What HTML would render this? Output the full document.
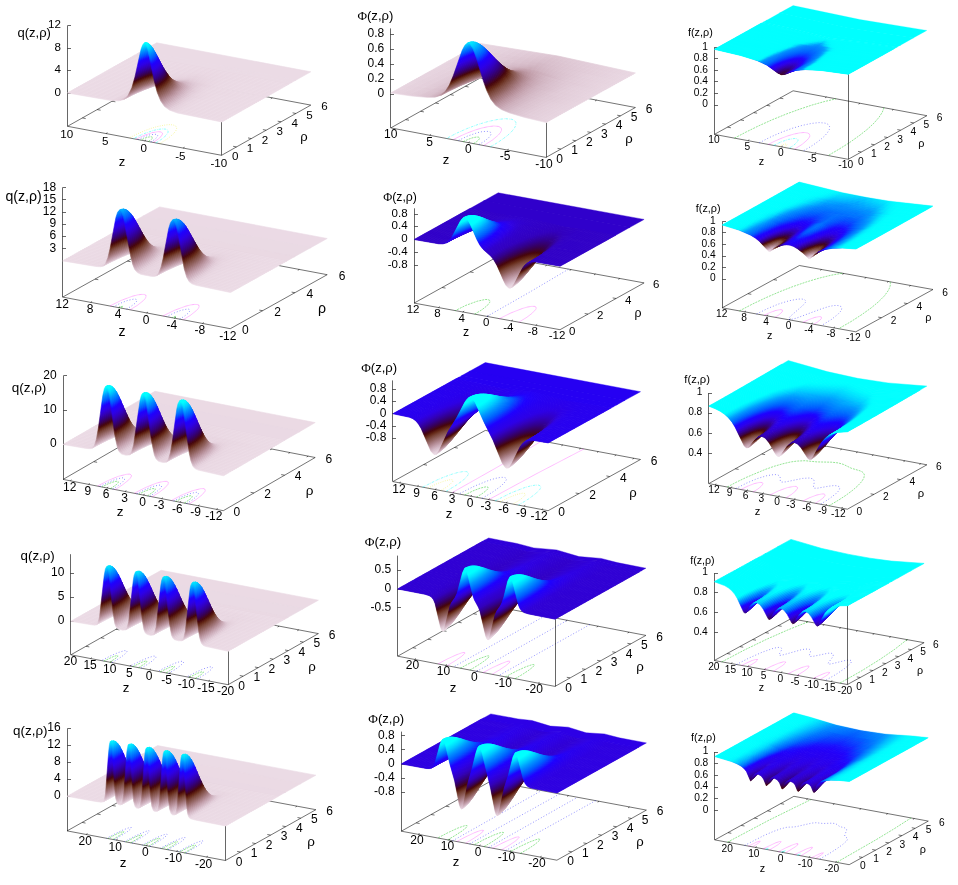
<!DOCTYPE html>
<html><head><meta charset="utf-8"><title>plots</title><style>html,body{margin:0;padding:0;background:#fff}svg{display:block}text{font-family:"Liberation Sans",sans-serif}.s{font-family:"Liberation Serif",serif}</style></head><body>
<svg width="958" height="885" viewBox="0 0 958 885" font-size="11" fill="#000">

<!-- a -->
<g fill="none" stroke="#000" stroke-width=".55">
<path d="M67.5 126.3L221.6 155.3L310.8 105.1L156.7 76.1Z"/>
<path d="M106.0 133.6L107.5 132.7M195.2 83.3L193.7 84.2M144.6 140.8L146.0 140.0M233.8 90.6L232.3 91.4M183.1 148.1L184.6 147.2M272.3 97.8L270.8 98.7M236.5 146.9L233.1 146.3M82.4 117.9L85.7 118.6M251.3 138.6L248.0 137.9M97.2 109.6L100.6 110.2M266.2 130.2L262.9 129.6M112.1 101.2L115.4 101.8M281.1 121.8L277.7 121.2M127.0 92.8L130.3 93.5M295.9 113.5L292.6 112.8M141.8 84.5L145.2 85.1"/>
</g>
<g fill="none" stroke-width=".42">
<path d="M148.4 141.5l3.2-2.3 .8-.9 .1-1-1.6-.6-2.5 .4-3.4 1-4.3 2" stroke="#00c000" stroke-dasharray="2 1"/>
<path d="M150.8 142l3.4-2.2 2.6-2.3 .9-1.7-.5-1.2-2.6-.4-4.8 .7-5.6 1.9-5.9 2.8" stroke="#0000ff" stroke-dasharray="1 2"/>
<path d="M153.1 142.4l4.7-3 3.2-2.8 1.5-2.5 0-1-.6-.6-1.5-.6-2.3-.2-6.1 1-8.3 2.8-7.7 3.7" stroke="#ff00ff" stroke-dasharray=".7 .5"/>
<path d="M155.8 142.9l6.1-3.9 4.2-3.6 1.9-3 .1-1.5-.7-1-2-.8-3.1-.2-4.4 .5-4.2 1-10.4 3.5-10 4.8" stroke="#00ffff" stroke-dasharray="2.5 1 .6 1"/>
<path d="M159.8 143.7l8.1-5.2 5.9-5 1.9-2.5 .9-1.9 0-1.5-.8-1.5-1.3-.7-1.7-.5-3.8-.3-5.2 .6-6.3 1.3-6.9 2-7 2.6-8 3.6-6.3 3.2" stroke="#e8e800" stroke-dasharray=".8 1.5"/>
</g>
<g fill="none" stroke="#000" stroke-width=".6">
<path d="M67.5 126.3L67.5 25.7M67.5 93.5L71.0 93.5M67.5 70.5L71.0 70.5M67.5 48.5L71.0 48.5M67.5 25.5L71.0 25.5M221.5 155.3L221.5 122.0"/>
</g>
<linearGradient id="Pa" gradientUnits="userSpaceOnUse" x1="67.50" y1="93.00" x2="79.74" y2="27.98"><stop offset="0" stop-color="#ecdce6"/><stop offset="0.03" stop-color="#e2cdd9"/><stop offset="0.06" stop-color="#d4b9c6"/><stop offset="0.1" stop-color="#c3a0ac"/><stop offset="0.15" stop-color="#aa8087"/><stop offset="0.2" stop-color="#91625f"/><stop offset="0.25" stop-color="#7a463a"/><stop offset="0.29" stop-color="#642816"/><stop offset="0.334" stop-color="#46050a"/><stop offset="0.388" stop-color="#370050"/><stop offset="0.448" stop-color="#32008c"/><stop offset="0.51" stop-color="#3200be"/><stop offset="0.57" stop-color="#2d00e6"/><stop offset="0.645" stop-color="#1e00ff"/><stop offset="0.72" stop-color="#0058ff"/><stop offset="0.8" stop-color="#0096ff"/><stop offset="0.86" stop-color="#00cdff"/><stop offset="0.9" stop-color="#00ebff"/><stop offset="0.93" stop-color="#00ffff"/><stop offset="1" stop-color="#00ffff"/></linearGradient>
<g stroke-width=".6" stroke-linejoin="round" fill="url(#Pa)" stroke="url(#Pa)"><path d="M141.2 51.5l77 14.2 77.1 14.8 15.5-8.7-154.1-29z" fill="#ebdbe5" stroke="#ebdbe5"/><path d="M137.4 53.6l77.1 14.1 77 14.9 4.4-2.5-77-14.8-77.1-14.2z" fill="#ebdbe5" stroke="#ebdbe5"/><path d="M133.7 55.7l77.1 14 77 15 4.4-2.5-77-14.9-77.1-14.1z" fill="#ebdbe5" stroke="#ebdbe5"/><path transform="translate(66.9 -37.65)" d="M65 94.4l77 13.9 77.1 15.1 2.5-1.4-77-15-77.1-14z"/><path transform="translate(65.04 -36.6)" d="M65 94.4l77 13.8 77.1 15.2 2.5-1.4-77-15.1-77.1-13.9z"/><path transform="translate(63.18 -35.56)" d="M65 94.4l77 13.8 77.1 15.2 2.5-1.4-77-15.1-77.1-13.9z"/><path transform="translate(61.33 -34.51)" d="M65 94.4l77 13.7 77.1 15.3 2.5-1.4-77.1-15.2-77-13.8z"/><path transform="translate(59.47 -33.47)" d="M65 94.4l43.1 7.9 33.9 5.7 33.9 7.1 43.2 8.3 2.5-1.4-77.1-15.3-77-13.7z"/><path transform="translate(57.61 -32.42)" d="M65 94.4l43.9 8 33.1 5.4 33.2 7.1 43.9 8.5 2.5-1.4-77.1-15.4-77-13.6z"/><path transform="translate(55.75 -31.38)" d="M65 94.4l44.7 8.2 32.3 5.1 32.4 7 44.7 8.7 2.5-1.4-43.5-8.4-33.5-7.1-33.6-5.5-43.5-8z"/><path transform="translate(53.89 -30.33)" d="M65 94.4l45.4 8.3 31.6 4.8 31.6 7.1 45.5 8.8 2.5-1.4-44.3-8.6-32.7-7.1-32.8-5.2-44.3-8.1z"/><path transform="translate(52.03 -29.28)" d="M65 94.4l45.8 8.3 31.2 4.6 31.2 7.2 45.9 8.9 2.5-1.4-45.1-8.8-31.9-7.1-32-4.9-45.1-8.2z"/><path transform="translate(50.18 -28.24)" d="M65 94.4l46.6 8.4 30.4 4.2 30.5 7.3 46.6 9.1 2.5-1.4-45.8-8.9-31.3-7.2-31.2-4.6-45.8-8.3z"/><path transform="translate(48.32 -27.19)" d="M65 94.4l47.4 8.5 29.6 3.8 29.7 7.4 47.4 9.3 2.5-1.4-46.6-9.1-30.5-7.2-30.4-4.3-46.6-8.4z"/><path transform="translate(46.46 -26.15)" d="M65 94.4l48.1 8.6 28.9 3.3 28.9 7.6 48.2 9.5 2.5-1.4-47-9.2-30.1-7.4-30-3.9-47-8.5z"/><path transform="translate(44.6 -25.1)" d="M65 94.4l48.5 8.7 28.5 2.8 28.5 7.9 48.6 9.6 2.5-1.4-47.8-9.4-29.2-7.5-29.3-3.5-47.8-8.6z"/><path transform="translate(42.74 -24.05)" d="M65 94.4l49.3 8.7 8.8 1.1 13.9 .5 5 .6 18.9 6 8.9 2.3 49.3 9.8 2.5-1.4-48.5-9.6-28.5-7.8-28.6-2.9-48.5-8.7z"/><path transform="translate(40.88 -23.01)" d="M65 94.4l50.1 8.8 8.8 .9 13.1 0 5 .5 5 1.4 13.1 4.9 8.9 2.5 50.1 10 2.5-1.4-49.3-9.8-27.7-8.1-27.8-2.4-49.3-8.7z"/><path transform="translate(39.03 -21.96)" d="M65 94.4l50.4 8.8 8.9 .7 12.7-.5 5 .4 5 1.5 12.7 5.3 8.9 2.6 50.5 10.2 2.5-1.4-49.7-10-8.9-2.4-13.4-4.8-5.1-1.3-5-.6-13.4-.2-8.9-.9-49.7-8.8z"/><path transform="translate(37.17 -20.92)" d="M65 94.4l35.8 6.5 15.4 2.4 8.5 .4 12.7-1.2 4.6 .3 4.6 1.5 12.8 5.9 8.4 2.8 15.4 3.5 35.9 6.9 2.5-1.4-50.5-10.2-8.8-2.6-12.7-5.1-5.1-1.4-5-.4-12.7 .3-8.8-.8-50.5-8.8z"/><path transform="translate(35.31 -19.87)" d="M65 94.4l49.3 8.6 9.6 .5 8.9-1.2 2.5-.5-8.9 .6-10-.8-48.9-8.6zM135.3 101.8l7.3-.3-2.5-.1-7.3 .9zM140.1 101.4l5.4 1.3 12.7 6.8 9.6 3.4 15.4 3.5 35.9 7 2.5-1.4-50.5-10.2-10-3.2-13.1-5.8-5.4-1.3z"/><path transform="translate(33.45 -18.83)" d="M65 94.4l48.1 8.4 9.3 .6 7.7-1.1 2.5-.7-7.7 .6-9.6-.8-47.8-8.4zM132.6 101.6l7.3-1.1 4.7 .2-2.6-.5-4.2 0-7.7 2.1zM142 100.2l4.6 1.8 12 7.4 8.1 3.1 15 3.6 37.4 7.3 2.5-1.4-36.2-7.1-15.4-3.5-8.5-2.9-12.3-6.3-4.6-1.5z"/><path transform="translate(31.59 -17.78)" d="M65 94.4l47.4 8.3 9.2 .5 6.9-1.1 2.6-.7-7.4 .6-9.2-.7-47-8.3zM131.1 101.4l9.6-2.2 5 .4-2.5-.8-2.3-.4-2.7 .2-9.7 3.5zM143.2 98.8l3.8 2 10.8 7.8 8.5 3.7 15 3.7 37.8 7.4 2.5-1.4-37-7.2-15-3.6-8.9-3.3-11.1-6.6-3.9-1.7z"/><path transform="translate(29.73 -16.73)" d="M65 94.4l46.6 8.2 8.9 .5 6.5-1 2.5-.8-6.9 .6-8.9-.8-46.2-8.1zM129.5 101.3l11.6-3.6 2.7-.1 2.7 .7-2.5-1.2-2.7-.7-2.7 .3-11.6 5.4zM144 97.1l3 2 10.1 8.6 4.2 2.5 4.6 1.9 14.7 3.8 38.5 7.5 2.5-1.4-37.8-7.4-15-3.7-8.8-3.8-10.4-7.2-3.1-1.6z"/><path transform="translate(27.88 -15.69)" d="M65 94.4l46.2 8.1 8.9 .5 6.1-1.2 2.5-.8-6.5 .7-8.9-.7-45.8-8zM128.7 101l12.8-5.1 3-.1 2.7 1-2.5-1.5-2.7-1.2-3.1 .3-8.8 5.6-3.9 1.8zM144.7 95.3l12 11.6 4.2 2.8 4.6 2.2 14.7 3.9 38.9 7.6 2.5-1.4-38.5-7.6-14.7-3.7-4.6-1.9-4.2-2.3-12.4-9.7z"/><path transform="translate(26.02 -14.64)" d="M65 94.4l45.4 8 8.5 .5 6.2-1.1 2.5-.9-6.2 .7-8.8-.7-45.1-7.9zM127.6 100.9l4.2-1.6 9.7-5.5 3-.2 2.7 1.1-2.5-2.1-2.7-1.3-3.1 .5-9.2 7.5-4.6 2.5zM144.7 92.6l11.6 13.4 4.2 3.2 4.6 2.4 5.8 1.9 8.5 2.1 39.7 7.8 2.5-1.4-38.9-7.7-14.7-3.8-4.6-2.1-4.2-2.7-12-11z"/><path transform="translate(24.16 -13.6)" d="M65 94.4l45 7.9 8.5 .5 5.8-1.1 2.5-.9-6.1 .7-8.5-.7-44.7-7.8zM126.8 100.8l5-2.3 7.4-5.8 2.7-1.5 2.6-.3 3.1 1.6-2.5-2.5-3.1-2-2.7 .6-2.3 1.8-7.3 8-2.7 2-2.7 1.3zM145.1 90l11.2 15.3 3.8 3.4 4.7 2.6 5.7 2.1 8.1 2 40.5 8 2.5-1.4-39.7-7.8-14.2-4-4.7-2.3-4.2-3.1-11.2-12.3z"/><path transform="translate(22.3 -12.55)" d="M65 94.4l45 7.9 8.1 .4 5.8-1.2 2.5-1-5.7 .9-8.5-.6-44.7-7.8zM126.4 100.5l5.4-2.9 7.7-7.6 2.4-1.7 2.7-.5 3 1.9-2.5-3.1-1.5-1.5-1.6-.8-2.7 .8-2.3 2.4-7.3 9.8-2.7 2.5-3.1 1.7zM145.1 86.6l10.8 17.4 3.8 4 4.7 3 5.7 2.2 8.1 2.1 40.9 8.1 2.5-1.4-40.1-7.9-8.4-2.1-5.8-2.1-4.6-2.5-3.9-3.3-11.2-14.4z"/><path transform="translate(20.44 -11.5)" d="M65 94.4l44.3 7.7 8.1 .5 5.7-1.1 2.6-1-5.8 .8-8.1-.6-44.3-7.7zM125.7 100.5l3.1-1.4 3-2.4 7.7-9.5 2.4-2.2 2.7-.7 1.5 .7 1.5 1.4-2.5-3.6-2.7-2.5-1.1-.1-1.6 .8-2.3 2.7-8.1 13-3.1 3-3.1 1.8zM145.1 82.8l10.4 19.8 3.9 4.7 4.6 3.3 5.8 2.4 8.1 2.2 41.2 8.2 2.5-1.4-40.8-8.1-8.1-2.1-5.8-2.2-4.6-2.9-3.9-3.8-10.8-16.5z"/><path transform="translate(18.58 -10.46)" d="M65 94.4l44.3 7.7 8.1 .4 5.4-1.1 2.5-1.1-5.8 1-8.1-.6-43.9-7.7zM125.3 100.3l3.5-1.8 3-2.9 8.1-12.1 2.3-2.5 1.6-.7 1.1 .2 2.7 2.3-2.5-4-2.7-2.9-1.1-.1-1.6 .9-2.3 3.3-5.4 11.1-2.7 4.5-3.1 3.5-3.4 2.3zM145.1 78.8l10 22.3 3.9 5.3 4.6 3.8 5.4 2.5 8.1 2.3 42 8.4 2.5-1.4-41.2-8.2-8.1-2.2-5.8-2.3-4.6-3.3-3.9-4.4-10.4-18.8z"/><path transform="translate(16.73 -9.41)" d="M65 94.4l43.9 7.7 8.1 .4 5.4-1.2 2.5-1.1-5.4 1-8.1-.5-43.9-7.7zM124.9 100.2l3.5-2 3.4-3.6 8.1-14.6 2.3-3.1 1.2-.8 1.1-.1 1.2 .5 1.5 1.8-2.5-4.6-1.5-2.1-1.2-.6-1.1 .2-1.2 1-2.3 4-5.4 13-2.7 5.3-3.1 4.1-3.8 2.7zM144.7 73.7l10.4 26.3 3.9 6 4.2 3.8 5.4 2.7 8.1 2.4 42.4 8.5 2.5-1.4-42-8.4-8.1-2.3-5.4-2.4-4.2-3.3-3.9-5-10.8-22.3z"/><path transform="translate(14.87 -8.37)" d="M65 94.4l43.9 7.7 7.7 .3 5.4-1.2 2.5-1.1-5.4 1-8.1-.5-43.5-7.6zM124.5 100.1l3.9-2.4 3.4-4.2 2.7-5 5.4-12.3 2.3-3.8 1.2-.9 1.1-.2 1.2 .6 1.5 2-2.5-4.8-1.5-2.4-1.2-.7-1.1 .3-1.2 1.2-1.9 3.8-5.4 15.1-3.1 7-3.5 5-3.8 2.8zM144.7 69.1l7.7 23.2 2.7 6.7 3.9 6.5 4.2 4.1 5.4 2.9 7.7 2.3 42.8 8.6 2.5-1.4-42-8.4-8.1-2.3-5.4-2.6-4.6-4-3.9-5.7-10.4-25.1z"/><path transform="translate(13.01 -7.32)" d="M65 94.4l43.5 7.6 7.7 .4 5.4-1.2 2.5-1.2-5.4 1.1-8.1-.6-43.1-7.5zM124.1 100l4.3-2.8 3.4-4.8 3.1-6.7 5-13.4 2.3-4.5 1.2-1.2 1.1-.2 1.2 .7 1.2 1.5-2.6-4.9-1.1-1.9-1.2-.7-1.1 .3-1.2 1.5-1.9 4.4-5.4 17.2-3.1 7.8-3.5 5.6-4.2 3.3zM144.3 63.7l2 5.1 5.4 19.3 3 9 3.9 7.5 4.2 4.6 5.4 3.1 7.7 2.4 43.2 8.7 2.5-1.4-42.4-8.5-8.1-2.4-5.4-2.8-4.2-4-3.9-6.3-3-7.6-5.8-17.5-1.9-4.3z"/><path transform="translate(11.15 -6.28)" d="M65 94.4l43.5 7.6 7.7 .4 5.4-1.4 2.5-1.2-5.4 1.2-7.7-.4-43.5-7.6zM124.1 99.8l4.3-3.1 3.4-5.4 3.1-7.6 5.4-16.4 1.9-4.2 1.2-1.4 1.2-.3 1.9 1.9-2.6-4.8-1.9-2.1-1.1 .4-1.2 1.6-2.3 6.3-5.4 19.3-2.7 7.4-3.5 6.1-1.9 2-2.3 1.5zM143.9 58.5l2.4 6.5 5.4 21.3 3 9.9 3.5 7.4 4.2 5.1 5.4 3.4 7.7 2.5 43.6 8.8 2.5-1.4-43.1-8.7-7.8-2.4-5.3-3.1-4.3-4.5-3.8-7.2-3.1-8.7-5.4-18.5-2.3-5.6z"/><path transform="translate(9.29 -5.23)" d="M65 94.4l43.1 7.5 7.7 .4 5.4-1.2 2.5-1.3-5.3 1.2-7.8-.5-43.1-7.5zM123.7 99.8l4.3-3.1 3.8-6.4 3.1-8.4 5.4-18.6 1.9-4.7 2-2 .7 .1 1.2 1.3-2.5-4.3-1.2-1.4-.8-.2-1.9 2.4-2.3 6.9-5.4 21.1-2.7 8-3.8 7.1-2 2-2.3 1.5zM143.6 53.7l2.3 6.4 5.8 24.7 3 10.5 3.5 7.9 4.2 5.4 5.4 3.4 7.7 2.6 43.6 8.8 2.5-1.4-43.5-8.8-7.7-2.5-5.4-3.4-4.3-5-3.4-7.2-3.1-9.6-5.4-20.6-2.7-6.9z"/><path transform="translate(7.43 -4.18)" d="M65 94.4l43.5 7.6 7.7 .3 5-1.3 2.5-1.3-5.3 1.2-7.7-.4-43.2-7.6zM123.7 99.7l3.9-3 3.5-5.5 3.4-9.6 7-25.4 1.1-2.5 1.2-1.4 .8-.2 1.1 .9-2.5-3.4-1.2-1-.7 .2-1.2 1.5-1.2 2.9-6.9 28.1-3.5 10.5-3.4 6-3.9 3.2zM143.2 49.6l2.7 7.6 5.8 26.3 2.7 10 3.4 8.6 4.3 6 5 3.5 7.7 2.8 44.3 9 2.5-1.5-43.5-8.7-7.7-2.6-5.4-3.4-4.3-5.3-3.4-7.7-3.1-10.3-5.8-24-2.7-6.9z"/><path transform="translate(5.58 -3.14)" d="M65 94.4l43.5 7.6 7.7 .3 5-1.4 2.5-1.3-5.4 1.3-7.7-.4-43.1-7.5zM123.7 99.6l3.9-3.1 3.5-6 3.4-10.2 7-27.5 1.9-3.9 1.1-.5 .8 .4-2.5-2.2-.8-.5-1.1 .6-2 4.3-6.9 29.5-3.1 9.9-3.4 6.7-2 2.2-2.3 1.6zM142.8 46.6l1.5 3.1 1.6 5.4 5.7 27.5 3.1 11.6 3.5 8.5 3.9 5.3 5 3.6 7.7 2.8 44.3 9 2.5-1.4-43.9-8.9-7.7-2.7-5.4-3.7-3.9-5.2-3.4-8.1-3.1-10.9-5.8-25.8-1.5-5-1.6-2.9z"/><path transform="translate(3.72 -2.09)" d="M65 94.4l43.5 7.6 7.7 .2 5-1.3 2.5-1.4-5 1.3-7.7-.3-43.5-7.5zM123.7 99.5l2.4-1.6 1.9-2.2 3.4-6.6 3.5-11.3 6.2-26.3 1.9-4.9 1.5-1.2-2.5-.7-1.5 1.1-1.9 5.2-6.2 27.4-3.5 11.8-3.4 6.8-2 2.2-2.3 1.7zM142 44.7l1.6 1.7 1.9 5.9 6.2 29.8 3 11.8 3.5 8.6 3.9 5.5 5 3.6 7.7 2.8 44.3 9 2.5-1.4-44.3-9-7.7-2.8-5-3.6-3.9-5.3-3.4-8.4-3.1-11.5-6.2-28.6-1.9-5.7-1.6-1.7z"/><path transform="translate(1.86 -1.05)" d="M65.6 94l43.6 7.6 7.7 .3 5-1.4 1.8-1-5 1.3-7.7-.3-43.5-7.5zM123.7 99.5l2.4-1.7 1.9-2.2 3.8-7.8 3.1-10.6 6.2-27.3 1.5-4.4 1.6-1.9-1.9 .5-1.5 1.9-1.6 4.4-6.1 27.6-3.1 10.7-3.9 7.9-1.9 2.2-2.3 1.7zM142.3 44.1l.8 .1 .7 .9 2 5.2 6.5 31.3 3.1 11.9 3.5 8.6 3.8 5.5 5 3.6 7.7 2.8 44.3 9 1.9-1-44.3-9-7.7-2.8-5-3.7-3.9-5.4-3.4-8.6-3.1-11.7-6.6-31-1.9-5.1-.8-.9-.7-.2z"/></g>
<g text-anchor="middle" font-size="11.6"><text x="66.7" y="137.9">10</text><text x="105.2" y="145.1">5</text><text x="143.8" y="152.4">0</text><text x="180.3" y="159.6">-5</text><text x="218.8" y="166.9">-10</text><text x="235.2" y="160.4">0</text><text x="250.1" y="152.0">1</text><text x="264.9" y="143.6">2</text><text x="279.8" y="135.3">3</text><text x="294.7" y="126.9">4</text><text x="309.5" y="118.5">5</text><text x="324.4" y="110.2">6</text></g>
<g text-anchor="middle" font-size="13"><text x="122.0" y="166.0">z</text><text x="304.0" y="141.0">ρ</text><text x="17.5" y="37.0" text-anchor="start">q(z,ρ)</text></g>
<g text-anchor="end" font-size="11.6"><text x="61.0" y="95.7">0</text><text x="61.0" y="73.2">4</text><text x="61.0" y="50.8">8</text><text x="61.0" y="28.3">12</text></g>
<!-- b -->
<g fill="none" stroke="#000" stroke-width=".55">
<path d="M390.8 127.9L546.0 157.4L635.4 107.5L480.2 78.0Z"/>
<path d="M429.6 135.3L431.1 134.4M519.0 85.4L517.5 86.2M468.4 142.7L469.9 141.8M557.8 92.8L556.3 93.6M507.2 150.0L508.7 149.2M596.6 100.1L595.1 101.0M560.9 149.1L557.6 148.4M405.7 119.6L409.0 120.2M575.8 140.8L572.5 140.1M420.6 111.3L423.9 111.9M590.7 132.4L587.4 131.8M435.5 103.0L438.8 103.6M605.6 124.1L602.3 123.5M450.4 94.6L453.7 95.3M620.5 115.8L617.2 115.2M465.3 86.3L468.6 87.0"/>
</g>
<g fill="none" stroke-width=".42">
<path d="M473.6 143.6l2.7-1.7 2.2-1.8 1-1.5-.2-1.1-1-.4-1.6-.1-3.8 .7-4.6 1.6-5.1 2.4" stroke="#00c000" stroke-dasharray="2 1"/>
<path d="M478.9 144.6l5.5-3.4 4.4-3.6 1.5-1.8 .6-1.4 .1-1-.5-1.1-1.4-.7-2.9-.3-4.2 .4-4.3 .9-9.7 3.3-10.1 4.8" stroke="#0000ff" stroke-dasharray="1 2"/>
<path d="M483.7 145.6l8.8-5.6 5.9-5 2-2.4 1-2.1 .1-1.5-.8-1.5-2.3-1.1-4.5-.4-5.3 .6-6.6 1.4-6.8 2-7.9 3-7.1 3.1-7.1 3.6" stroke="#ff00ff" stroke-dasharray=".7 .5"/>
<path d="M490.4 146.8l6.5-3.8 5.8-3.9 4.7-3.5 4-3.7 2.8-3.4 1.6-3.1 .2-2.6-1-1.8-1.5-1.1-2.2-.7-6-.5-7.4 .7-9.4 2-10.3 3-11 4.1-10.6 4.7-10.2 5.3" stroke="#00ffff" stroke-dasharray="2.5 1 .6 1"/>
</g>
<g fill="none" stroke="#000" stroke-width=".6">
<path d="M390.5 127.9L390.5 28.4M390.5 94.5L394.0 94.5M390.5 79.5L394.0 79.5M390.5 64.5L394.0 64.5M390.5 49.5L394.0 49.5M390.5 34.5L394.0 34.5M546.5 157.4L546.5 122.6"/>
</g>
<linearGradient id="Pb" gradientUnits="userSpaceOnUse" x1="390.80" y1="94.50" x2="404.16" y2="24.19"><stop offset="0" stop-color="#ecdce6"/><stop offset="0.03" stop-color="#e2cdd9"/><stop offset="0.06" stop-color="#d4b9c6"/><stop offset="0.1" stop-color="#c3a0ac"/><stop offset="0.15" stop-color="#aa8087"/><stop offset="0.2" stop-color="#91625f"/><stop offset="0.25" stop-color="#7a463a"/><stop offset="0.29" stop-color="#642816"/><stop offset="0.334" stop-color="#46050a"/><stop offset="0.388" stop-color="#370050"/><stop offset="0.448" stop-color="#32008c"/><stop offset="0.51" stop-color="#3200be"/><stop offset="0.57" stop-color="#2d00e6"/><stop offset="0.645" stop-color="#1e00ff"/><stop offset="0.72" stop-color="#0058ff"/><stop offset="0.8" stop-color="#0096ff"/><stop offset="0.86" stop-color="#00cdff"/><stop offset="0.9" stop-color="#00ebff"/><stop offset="0.93" stop-color="#00ffff"/><stop offset="1" stop-color="#00ffff"/></linearGradient>
<g stroke-width=".6" stroke-linejoin="round" fill="url(#Pb)" stroke="url(#Pb)"><path transform="translate(89.4 -49.9)" d="M388.3 94.8l77.6 12.4 77.6 17.1 2.5-1.4-77.6-17-77.6-12.5z"/><path transform="translate(87.54 -48.86)" d="M388.3 94.8l77.6 12.2 77.6 17.3 2.5-1.4-77.6-17.1-77.6-12.4z"/><path transform="translate(85.67 -47.82)" d="M388.3 94.8l77.6 12.1 77.6 17.4 2.5-1.4-77.6-17.2-77.6-12.3z"/><path transform="translate(83.81 -46.78)" d="M388.3 94.8l77.6 12 77.6 17.5 2.5-1.4-77.6-17.4-77.6-12.1z"/><path transform="translate(81.95 -45.74)" d="M388.3 94.8l77.6 11.8 77.6 17.7 2.5-1.4-77.6-17.5-77.6-12z"/><path transform="translate(80.09 -44.7)" d="M388.3 94.7l77.6 11.8 77.6 17.7 2.5-1.3-77.6-17.6-77.6-11.9z"/><path transform="translate(78.22 -43.66)" d="M388.3 94.7l77.6 11.6 77.6 17.9 2.5-1.4-77.6-17.7-77.6-11.8z"/><path transform="translate(76.36 -42.62)" d="M388.3 94.7l77.6 11.4 77.6 18.1 2.5-1.4-77.6-17.8-77.6-11.7z"/><path transform="translate(74.5 -41.58)" d="M388.3 94.7l27.5 4.3 50.1 7 50 12.1 27.6 6.1 2.5-1.4-77.6-18-77.6-11.5z"/><path transform="translate(72.64 -40.54)" d="M388.3 94.7l28.7 4.5 48.9 6.5 48.9 12.1 28.7 6.4 2.5-1.4-27.2-6-50.4-12.2-50.4-7-27.2-4.3z"/><path transform="translate(70.77 -39.5)" d="M388.3 94.7l29.8 4.6 47.8 6.2 47.7 12 29.9 6.7 2.5-1.4-28.3-6.3-49.3-12.1-49.3-6.7-28.3-4.4z"/><path transform="translate(68.91 -38.46)" d="M388.3 94.7l31 4.7 46.6 5.8 46.5 11.9 31.1 7.1 2.5-1.4-29.5-6.7-48.1-11.9-48.1-6.3-29.5-4.6z"/><path transform="translate(67.05 -37.43)" d="M388.3 94.7l32.2 4.9 45.4 5.4 45.4 11.8 32.2 7.4 2.5-1.4-30.7-7-46.9-11.9-46.9-5.9-30.7-4.7z"/><path transform="translate(65.19 -36.39)" d="M388.3 94.7l33.7 5 43.9 4.9 43.8 11.8 33.8 7.8 2.5-1.4-31.8-7.3-45.8-11.8-45.8-5.6-31.8-4.8z"/><path transform="translate(63.32 -35.35)" d="M388.3 94.7l35.3 5.2 34.5 3.2 7.8 1.1 42.3 11.7 35.3 8.3 2.5-1.4-33.4-7.7-44.2-11.8-44.2-5-33.4-5z"/><path transform="translate(61.46 -34.31)" d="M388.3 94.7l37.2 5.3 33.4 2.8 7 1 7 1.7 33.3 9.9 37.3 8.8 2.5-1.4-34.9-8.2-42.7-11.6-42.7-4.6-34.9-5.1z"/><path transform="translate(59.6 -33.27)" d="M388.3 94.6l38.8 5.6 14.3 1.3 17.9 .9 6.6 .9 6.6 1.6 17.8 5.9 14.4 4.1 38.8 9.2 2.5-1.4-36.5-8.5-33.7-9.9-7.4-1.7-7.4-1.1-33.7-2.9-36.5-5.4z"/><path transform="translate(57.74 -32.23)" d="M388.3 94.6l40.7 5.7 13.6 1.1 17.1 .5 6.2 .8 6.2 1.6 17 6 13.6 4 40.8 9.8 2.5-1.4-38.4-9.1-32.2-9.8-7-1.7-7-1-17.8-1-14.4-1.4-38.4-5.5z"/><path transform="translate(55.87 -31.19)" d="M388.3 94.6l23.3 3.6 19 2.2 12.8 .9 16.3 .1 6.2 .7 6.2 1.6 16.3 6.1 12.8 4 19 5 23.3 5.3 2.5-1.4-40-9.5-13.9-4.1-17.1-5.9-6.6-1.7-6.6-.8-17.1-.6-13.9-1.3-40-5.6z"/><path transform="translate(54.01 -30.15)" d="M388.3 94.6l24.4 3.7 19.4 2.2 12 .6 15.9-.4 5.9 .6 5.8 1.6 15.9 6.5 12 3.9 19.4 5.2 24.5 5.6 2.5-1.4-22.9-5.2-19-5-12.8-3.9-16.7-6.1-6.2-1.6-6.2-.7-16.7-.3-12.8-.9-19-2.3-22.9-3.5z"/><path transform="translate(52.15 -29.11)" d="M388.3 94.6l25.2 3.8 19.8 2.1 11.6 .4 15.1-1 5.9 .5 5.8 1.7 15.1 6.7 11.7 4.1 19.7 5.4 25.3 5.8 2.5-1.4-24.1-5.5-19-5.1-12.4-3.9-16.3-6.5-5.8-1.5-5.8-.7-16.3 .3-12.4-.8-19-2.2-24.1-3.6z"/><path transform="translate(50.29 -28.07)" d="M388.3 94.6l26.3 3.9 19.8 2 10.9 .1 14.7-1.6 5.9 .4 5.8 1.8 14.7 7.2 10.9 4 19.8 5.5 26.4 6.2 2.5-1.4-24.8-5.7-19.8-5.4-11.7-3.9-15.5-6.7-5.8-1.7-5.8-.5-15.5 .7-11.7-.4-19.8-2.2-24.8-3.7z"/><path transform="translate(48.42 -27.03)" d="M388.3 94.6l25.2 3.7 19 1.9 11.3 .2 10.4-1.5 2.6-.5-10.9 .9-12-.4-19-2.1-24.1-3.6zM456.8 98.4l8.1-.4-2.5-.1-8.2 1zM462.4 97.9l3.9 .5 4.2 1.3 15.9 8.4 11.7 4.5 19.4 5.4 26 6.1 2.5-1.4-24.8-5.8-19.4-5.3-12.1-4.2-16.6-7.7-4.3-1.2-3.9-.5z"/><path transform="translate(46.56 -25.99)" d="M388.3 94.6l24 3.5 18.6 2 11.3 .1 8.9-1.3 2.6-.6-9.4 .8-11.6-.4-18.2-2-23.7-3.5zM453.7 98.3l8.1-1.3 5.4 .1-2.5-.3-5.4 .2-8.2 1.9zM464.7 96.8l6.2 1.9 14.8 8.7 10.4 4.4 19.8 5.8 27.6 6.5 2.5-1.4-26.4-6.2-19.8-5.6-10.8-4.1-15.6-7.9-6.2-1.8z"/><path transform="translate(44.7 -24.95)" d="M388.3 94.6l23.6 3.5 18.3 1.8 10.4 .2 8.6-1.4 2.5-.6-8.9 .9-11.3-.5-17.8-1.9-22.9-3.4zM451.7 98.1l10.9-2.2 6.2 .2-2.5-.5-3.1-.3-3.2 .3-10.8 3.1zM466.3 95.6l5.8 2.4 14.7 9.6 8.6 3.8 19.4 5.9 28.7 6.8 2.5-1.4-27.5-6.5-19.8-5.8-9-3.6-15.1-8.5-5.8-2.2z"/><path transform="translate(42.84 -23.91)" d="M388.3 94.6l23.2 3.4 17.5 1.8 10.5 .2 8.1-1.4 2.6-.7-8.2 .9-11.2-.4-17.5-1.9-22.5-3.3zM450.2 97.9l12.8-3.3 3.5-.2 3.1 .5-2.6-.7-3.1-.5-3.5 .3-12.8 4.6zM467 94.2l5.5 2.7 13.5 9.9 9 4.3 19.4 6 29.1 7 2.5-1.4-28.3-6.7-19.8-6-8.9-3.9-14-8.8-5.4-2.4z"/><path transform="translate(40.97 -22.87)" d="M388.3 94.6l22.9 3.3 17.4 1.8 10.1 .1 7.8-1.4 2.5-.7-7.8 1-10.8-.4-17.1-1.8-22.5-3.4zM449 97.7l14-4.5 3.9-.3 3.4 .7-2.5-1-3.5-.7-3.5 .4-14.3 6.1zM467.8 92.6l5.1 3 12.8 10.5 8.9 4.7 19 6.1 29.9 7.2 2.5-1.5-29.1-6.9-19.4-5.9-8.9-4.3-13.2-9.3-5.1-2.6z"/><path transform="translate(39.11 -21.83)" d="M388.3 94.5l22.5 3.3 17 1.8 10.1 .1 7.4-1.4 2.5-.8-7.7 1-10.5-.3-17.1-1.9-21.7-3.2zM447.8 97.5l15.6-6 3.8-.3 3.9 1-2.5-1.2-3.9-1.1-3.9 .6-11.2 6-4.3 1.8zM468.6 91l4.3 2.9 12.4 11.4 4.2 2.8 4.7 2.4 7.8 2.9 10.8 3.2 30.7 7.4 2.5-1.4-29.9-7.1-19-6-9.3-4.9-12-9.6-4.7-2.8z"/><path transform="translate(37.25 -20.79)" d="M388.3 94.5l22.1 3.3 16.7 1.7 10.1 .1 6.9-1.3 2.6-.9-7.4 1-10.5-.3-16.7-1.8-21.3-3.2zM446.7 97.4l5-1.8 8.6-4.6 3.4-1.4 3.9-.3 3.9 1.2-2.5-1.4-3.9-1.3-3.9 .6-3.5 1.8-8.5 5.7-5.1 2.4zM469 89.1l4.2 3.4 11.7 11.9 4.2 3.2 4.7 2.6 7.4 2.9 10.8 3.3 31.5 7.6 2.5-1.4-30.7-7.4-10.8-3.2-7.8-2.9-8.9-5-12-10.6-4.3-3z"/><path transform="translate(35.39 -19.75)" d="M388.3 94.5l21.7 3.2 16.7 1.7 9.7 .1 7-1.4 2.5-.9-7 1.1-10.5-.3-16.3-1.7-21.3-3.2zM445.9 97.2l5.4-2.2 8.9-5.6 3.5-1.7 3.9-.5 3.9 1.3-2.5-1.7-3.9-1.4-3.9 .8-3.5 2.1-8.9 7.1-5.4 2.7zM469 86.8l4.2 3.8 11.7 13.2 4.2 3.4 4.7 2.8 7 2.9 10.8 3.3 31.9 7.8 2.5-1.4-31-7.5-10.9-3.3-7.4-2.8-4.6-2.5-4.3-3-12-11.8-4.3-3.2z"/><path transform="translate(33.52 -18.71)" d="M388.3 94.5l21.7 3.2 16.3 1.6 9.7 .1 6.6-1.4 2.5-.9-7 1.1-10-.3-16.3-1.7-21-3.1zM445.1 97.1l6.2-2.9 9-6.6 3.4-2 4.3-.7 3.9 1.6-2.5-1.9-3.9-1.7-3.9 .7-3.5 2.4-9.3 8.5-6.2 3.5zM469.4 84.6l3.8 3.9 11.7 14.6 4.3 3.8 4.6 2.9 7 3 10.5 3.3 32.2 7.9 2.5-1.4-31.8-7.8-10.5-3.2-7.4-3-4.6-2.7-4.3-3.3-11.6-12.7-3.9-3.4z"/><path transform="translate(31.66 -17.67)" d="M388.3 94.5l21.3 3.1 16.3 1.6 9.3 .1 6.6-1.4 2.5-.9-6.9 1.1-9.7-.3-15.9-1.6-21-3.1zM444.3 97l3.5-1.4 3.1-1.9 9.7-8.4 3.5-2.2 3.9-.7 3.9 1.7-2.5-2.1-2-1.2-1.9-.6-2 .1-1.9 .8-3.5 2.8-9.7 10-3.1 2.3-3.5 1.7zM469.4 82l3.8 4.3 11.3 15.7 4.3 4.2 4.6 3.2 6.6 3 10.1 3.3 33.4 8.3 2.5-1.4-32.2-7.9-10.5-3.3-7-3-4.6-2.8-4.3-3.7-11.6-14.1-3.9-3.7z"/><path transform="translate(29.8 -16.63)" d="M388.3 94.5l21.3 3.1 15.9 1.6 9.3 0 6.6-1.4 2.6-1-6.6 1.2-9.7-.2-15.9-1.6-21-3.1zM444 96.8l3.4-1.6 3.5-2.4 9.7-9.6 3.5-2.6 2-.7 1.9-.1 3.9 1.8-2.5-2.3-2-1.4-1.9-.6-2 .2-1.9 .9-3.5 3.2-9.7 11.4-3.5 2.9-3.5 1.9zM469.4 79.3l3.8 4.7 11.3 17.2 4.3 4.6 4.6 3.4 6.6 3.1 9.7 3.3 33.8 8.4 2.5-1.4-33-8.2-10.1-3.2-7-3.2-4.6-3.1-4.3-4.1-11.2-15.1-3.9-4.1z"/><path transform="translate(27.94 -15.59)" d="M388.3 94.5l20.9 3 15.9 1.6 9.3 0 6.2-1.4 2.6-1-6.6 1.2-9.3-.2-15.9-1.6-20.6-3zM443.2 96.7l3.9-1.8 3.4-2.6 10.1-11.3 3.5-3 2-.9 1.9-.1 1.9 .6 2 1.3-2.5-2.4-2-1.5-1.9-.6-2 .2-1.9 1.1-3.5 3.6-10.1 13.2-3.5 3.1-3.9 2.1zM469.4 76.5l3.8 5.1 11.3 18.8 4.3 4.9 4.6 3.7 6.6 3.3 9.7 3.2 14.8 4.1 19 4.4 2.5-1.4-33.4-8.3-10.1-3.3-6.6-3.2-4.6-3.3-4.3-4.4-11.2-16.7-3.9-4.5z"/><path transform="translate(26.07 -14.55)" d="M388.3 94.5l20.9 3 15.5 1.5 9.4 .1 6.2-1.5 2.5-1-6.6 1.2-9.3-.1-15.5-1.6-20.6-3zM442.8 96.6l3.9-1.9 3.9-3.3 10-12.7 3.5-3.4 2-1 1.9-.3 2 .7 1.9 1.4-2.5-2.5-2-1.6-1.9-.7-2 .3-1.9 1.2-3.5 4-10.1 14.8-3.9 3.8-3.8 2.2zM469.4 73.6l3.8 5.5 7.4 14.1 3.9 6.4 4.3 5.3 4.2 3.6 6.2 3.4 9.7 3.4 15.2 4.1 19.4 4.6 2.5-1.4-19-4.5-14.8-4-9.7-3.2-6.5-3.3-4.7-3.5-4.3-4.8-11.2-18.3-3.9-4.9z"/><path transform="translate(24.21 -13.51)" d="M388.3 94.5l20.9 3 15.5 1.5 9 0 6.2-1.5 2.5-1-6.2 1.2-9.3-.1-15.5-1.5-20.6-3zM442.4 96.5l3.9-2.1 3.9-3.4 3.5-4.4 6.9-10.3 3.5-3.9 2-1.1 1.9-.3 1.6 .4 1.9 1.4-2.5-2.6-2-1.5-1.5-.5-2 .4-1.9 1.3-3.5 4.5-10.1 16.3-3.9 4.2-4.2 2.6zM469 70.2l3.9 5.7 7.7 15.9 3.9 7 4.3 5.7 4.2 3.8 6.2 3.5 9.3 3.3 15.2 4.2 19.8 4.7 2.5-1.4-19.4-4.6-15.1-4.1-9.7-3.4-6.2-3.3-4.3-3.6-4.3-5.1-11.6-20.6-3.9-5.1z"/><path transform="translate(22.35 -12.48)" d="M388.3 94.5l20.5 2.9 15.6 1.6 8.9-.1 6.2-1.5 2.5-1-6.2 1.3-9.3-.1-15.5-1.6-20.2-2.9zM442 96.4l4.3-2.5 3.9-3.8 3.5-4.8 7.3-12 3.1-3.7 2-1.3 1.9-.4 1.6 .5 1.9 1.5-2.5-2.7-2-1.6-1.5-.5-2 .4-1.9 1.6-3.1 4.2-7.4 13.6-3.5 5.5-3.8 4.3-4.3 2.7zM469 67.2l3.9 6.1 7.7 17.2 3.9 7.5 3.9 5.6 4.6 4.5 6.2 3.6 9 3.3 15.1 4.2 20.2 4.8 2.5-1.4-19.8-4.7-15.1-4.2-9.3-3.3-6.2-3.4-4.3-3.8-4.3-5.5-3.9-6.8-7.7-15.5-3.9-5.5z"/><path transform="translate(20.49 -11.44)" d="M388.3 94.5l20.5 2.9 15.5 1.5 9 0 5.8-1.5 2.5-1.1-6.2 1.3-8.9-.1-15.1-1.5-20.6-2.9zM441.6 96.3l4.3-2.5 4.3-4.5 3.5-5.3 7.3-13.2 3.1-4.1 2-1.5 1.5-.4 1.6 .3 1.9 1.4-2.5-2.7-2-1.5-1.5-.3-1.6 .5-1.9 1.7-3.1 4.6-7.4 14.8-3.5 5.9-4.2 5.1-4.3 2.8zM468.6 63.8l4.2 7 7.8 18.4 3.9 8 3.9 5.9 4.6 4.8 6.2 3.7 9 3.4 15.1 4.2 20.2 4.8 2.5-1.4-20.2-4.8-15.1-4.2-8.9-3.3-6.2-3.6-4.3-3.9-4.3-5.9-3.9-7.3-7.7-16.8-4.3-6.3z"/><path transform="translate(18.62 -10.4)" d="M388.3 94.5l20.5 2.9 15.2 1.5 8.9-.1 5.8-1.5 2.5-1.1-6.2 1.3-8.9 0-15.1-1.5-20.2-2.9zM441.2 96.2l4.7-2.9 4.3-4.9 3.5-5.8 7.3-14.3 3.1-4.5 2-1.6 1.5-.5 1.6 .3 1.5 1.1-2.5-2.6-1.6-1.1-1.5-.3-1.6 .5-1.9 1.8-3.1 5-7.4 15.9-3.5 6.4-4.2 5.4-4.7 3.2zM468.2 60.5l1.9 2.6 2.4 4.4 8.5 21.4 3.5 7.5 3.9 6.3 4.6 5 5.9 3.7 8.9 3.4 15.1 4.3 20.6 4.9 2.5-1.4-20.2-4.8-15.1-4.2-8.9-3.4-6.2-3.7-4.7-4.6-3.9-5.9-3.5-6.9-8.5-19.6-2.3-4.1-2-2.3z"/><path transform="translate(16.76 -9.36)" d="M388.3 94.5l20.5 2.9 15.2 1.4 8.9 0 5.8-1.6 2.5-1.2-5.8 1.4-8.9 .1-15.1-1.5-20.6-2.9zM441.2 96l4.7-3.1 4.3-5.3 3.5-6.2 7.3-15.5 3.1-4.9 1.6-1.5 1.5-.7 1.6 0 1.5 1-2.5-2.4-1.5-1-1.6-.1-1.5 .8-1.6 1.7-3.1 5.4-7.4 16.9-3.5 6.9-4.2 5.7-4.7 3.5zM467.8 57.4l2.3 3 2.4 4.7 8.1 21.6 3.9 9 3.9 6.6 4.2 4.8 5.9 4 8.5 3.4 15.5 4.5 21 5 2.5-1.4-20.6-4.9-15.1-4.3-8.9-3.4-5.8-3.7-4.7-4.9-3.9-6.1-3.5-7.4-8.5-20.9-2.3-4.4-2.4-2.8z"/><path transform="translate(14.9 -8.32)" d="M388.3 94.5l20.5 2.9 15.2 1.4 8.5-.1 5.8-1.5 2.6-1.2-5.9 1.4-8.9 0-15.1-1.4-20.2-2.9zM440.9 96l4.6-3.1 4.3-5.5 3.9-7.3 7.3-16.5 2.7-4.8 3.1-2.8 1.6-.1 1.6 .7-2.6-2.2-1.5-.8-1.6 .2-1.5 1.2-1.6 1.9-2.7 5.2-7.4 17.9-3.9 7.9-4.2 5.9-4.7 3.4zM467.4 54.4l2.3 2.9 2.8 5.6 8.1 22.7 3.9 9.4 3.9 6.9 4.2 5.1 5.9 4 8.5 3.5 15.5 4.5 21 5 2.5-1.4-21-5-15.1-4.4-8.9-3.5-5.8-3.9-4.3-4.8-3.9-6.5-3.9-8.7-8.1-21.3-2.7-5.2-2.3-2.7z"/><path transform="translate(13.04 -7.28)" d="M388.3 94.5l20.5 2.9 15.2 1.4 8.5-.1 5.8-1.7 2.5-1.2-5.8 1.5-8.9 .1-15.1-1.5-20.2-2.8zM440.8 95.8l4.7-3.3 4.3-5.8 3.9-7.7 7.3-17.6 2.7-5 1.6-2 1.5-1.1 1.6-.1 1.2 .4-2.6-1.8-1.1-.5-1.6 .2-1.5 1.2-1.6 2.1-3.1 6.2-7 18-3.5 7.6-4.2 6.4-2.4 2.3-2.7 1.7zM467 51.8l2.4 2.6 2.7 5.6 8.9 25.7 3.9 9.5 3.9 7 3.8 4.6 5.9 4.2 8.5 3.5 15.1 4.4 21.4 5.1 2.5-1.4-21-5-15.5-4.5-8.5-3.5-5.8-4-3.9-4.4-3.9-6.6-3.9-9-8.9-24.2-2.7-5.2-2.3-2.6z"/><path transform="translate(11.17 -6.24)" d="M388.3 94.5l20.1 2.8 15.2 1.5 8.5-.1 5.8-1.6 2.6-1.2-5.9 1.4-8.5 .1-15.1-1.5-20.2-2.8zM440.5 95.9l2.7-1.6 2.3-2.1 4.3-6.1 3.9-8.1 7.3-18.6 2.7-5.3 2.8-3 1.5-.5 1.2 .4-2.6-1.5-1.1-.3-1.6 .4-2.7 3.3-2.7 5.6-7.4 19.7-3.9 8.6-4.2 6.4-2.3 2.2-2.8 1.7zM466.6 49.5l2.8 3 2.7 5.7 8.9 26.7 3.9 9.8 3.9 7.2 3.8 4.8 5.9 4.2 8.1 3.4 15.5 4.6 21.4 5.1 2.5-1.4-21.3-5.1-15.2-4.4-8.5-3.5-5.8-4.2-3.9-4.5-3.9-6.9-3.9-9.4-8.9-25.3-2.7-5.5-2.7-2.8z"/><path transform="translate(9.31 -5.2)" d="M388.3 94.5l20.1 2.8 15.2 1.5 8.5-.2 5.8-1.6 2.6-1.3-5.9 1.6-8.5 .1-15.1-1.5-20.2-2.8zM440.5 95.7l4.2-3 3.9-5.1 4.3-8.7 10.1-25.4 3.1-4.3 1.5-.7 1.2 .1-2.5-1-1.2-.1-1.6 .7-3.1 4.5-10.1 26.7-4.2 9.1-3.9 5.3-4.3 3.2zM466.3 47.6l2.7 2.6 2.7 5.5 9.3 28.5 3.9 10.1 3.9 7.4 3.8 4.8 5.9 4.4 8.1 3.4 15.5 4.6 21.4 5.1 2.5-1.4-21.3-5.1-15.2-4.4-8.5-3.6-5.8-4.2-3.9-4.7-3.9-7.1-3.9-9.8-9.3-27.3-2.7-5.3-2.7-2.5z"/><path transform="translate(7.45 -4.16)" d="M388.3 94.5l20.1 2.8 15.2 1.4 8.5-.1 5.8-1.7 2.6-1.3-5.9 1.6-8.5 .1-15.1-1.4-20.2-2.8zM440.5 95.6l4.6-3.5 3.9-5.6 3.9-8.3 9.7-25.6 3.1-4.9 1.5-1 1.2-.1-2.5-.5-1.2 .1-1.5 1.1-3.2 5-9.7 26.6-3.8 8.6-3.9 5.7-4.7 3.7zM465.9 46.1l1.1 .5 1.6 1.7 3.1 6.2 9.7 30.3 3.9 10.1 3.5 6.6 3.8 5 5.9 4.3 8.1 3.5 15.5 4.6 21.4 5.1 2.5-1.4-21.3-5.1-15.6-4.6-8.1-3.4-5.8-4.3-3.9-4.9-3.5-6.4-3.9-9.8-9.7-29.3-3.1-6-1.5-1.6-1.2-.6z"/><path transform="translate(5.59 -3.12)" d="M388.3 94.5l20.1 2.8 15.2 1.4 8.5-.1 5.8-1.7 2.6-1.3-5.9 1.6-8.5 .1-15.1-1.4-20.2-2.8zM440.5 95.6l4.6-3.7 3.9-5.7 3.9-8.6 9.7-26.3 2.7-4.6 1.5-1.3 1.2-.3-2.5 0-1.2 .3-1.5 1.4-2.8 4.7-9.7 27-3.8 8.8-3.9 5.8-4.7 3.8zM465.5 45.1l2.3 1.3 2.7 4.5 3.1 8.3 7 22.9 3.5 9.8 4.3 8.8 4.2 5.7 5.9 4.4 8.1 3.5 15.1 4.5 21.8 5.2 2.5-1.4-21.3-5.1-15.6-4.6-8.1-3.5-5.8-4.3-4.3-5.6-4.3-8.7-3.5-9.6-6.9-22.3-3.1-8.1-2.8-4.4-2.3-1.3z"/><path transform="translate(3.72 -2.08)" d="M388.3 94.5l20.5 2.9 14.8 1.3 8.5-.1 5.8-1.7 2.6-1.4-5.9 1.7-8.5 .1-15.1-1.4-20.2-2.8zM440.5 95.5l4.6-3.8 3.9-5.8 4.3-9.7 8.9-25 2.7-5 1.6-1.6 1.1-.6-2.5 .7-1.2 .5-1.5 1.6-2.7 5.1-9 25.4-4.2 9.9-3.9 5.9-4.7 3.8zM465.1 44.7l1.2 .1 1.5 1.1 2.7 4.6 3.1 8.3 7 23.1 3.5 9.9 4.3 8.9 4.6 6.1 5.9 4.2 8.1 3.4 15.1 4.5 21.4 5.1 2.5-1.4-21.3-5.2-15.2-4.4-8.1-3.4-5.8-4.2-4.7-6-4.3-8.8-3.5-9.8-6.9-22.8-3.1-8.2-2.8-4.5-1.5-1.1-1.2-.2z"/><path transform="translate(1.86 -1.04)" d="M388.9 94.1l21 3 15.1 1.3 8.2-.2 5.8-1.9 1.9-1.1-5.9 1.9-8.1 .3-15.1-1.4-21-2.9zM440.9 95.2l4.6-4 3.9-6.2 3.9-9.1 8.9-25.3 2.7-5.1 2.3-2-1.8 .8-2.4 2.1-2.7 5.1-8.9 25.4-3.9 9.1-3.9 6.2-4.6 4.1zM465.4 44.3l1.1-.1 1.6 .9 3.1 4.9 3.1 8.4 7 23 3.5 10 4.2 8.9 4.7 6.1 5.8 4.2 8.2 3.4 15.1 4.5 21.3 5.1 1.9-1-21.3-5.2-15.2-4.4-8.1-3.4-5.8-4.3-4.7-6-4.3-8.9-3.5-9.9-6.9-23-3.1-8.3-3.1-5-1.6-.8-1.2 .1z"/></g>
<g text-anchor="middle" font-size="12"><text x="390.8" y="138.2">10</text><text x="429.6" y="145.6">5</text><text x="468.4" y="152.9">0</text><text x="505.2" y="160.3">-5</text><text x="544.0" y="167.7">-10</text><text x="559.6" y="162.6">0</text><text x="574.5" y="154.3">1</text><text x="589.4" y="146.0">2</text><text x="604.3" y="137.6">3</text><text x="619.2" y="129.3">4</text><text x="634.1" y="121.0">5</text><text x="649.0" y="112.7">6</text></g>
<g text-anchor="middle" font-size="13.1"><text x="446.0" y="164.3">z</text><text x="629.0" y="143.0">ρ</text><text x="357.4" y="19.5" text-anchor="start"><tspan class="s">Φ</tspan>(z,ρ)</text></g>
<g text-anchor="end" font-size="12"><text x="384.3" y="97.3">0</text><text x="384.3" y="82.3">0.2</text><text x="384.3" y="67.3">0.4</text><text x="384.3" y="52.2">0.6</text><text x="384.3" y="37.2">0.8</text></g>
<!-- c -->
<g fill="none" stroke="#000" stroke-width=".55">
<path d="M714.4 134.4L848.2 159.3L926.9 115.7L793.1 90.8Z"/>
<path d="M747.9 140.6L749.3 139.8M826.5 97.0L825.1 97.8M781.3 146.9L782.8 146.0M860.0 103.3L858.5 104.1M814.8 153.1L816.2 152.3M893.4 109.5L892.0 110.3M861.3 152.0L858.0 151.4M727.5 127.1L730.9 127.8M874.4 144.8L871.1 144.1M740.6 119.9L744.0 120.5M887.5 137.5L884.2 136.9M753.8 112.6L757.1 113.2M900.7 130.2L897.3 129.6M766.9 105.3L770.2 106.0M913.8 123.0L910.4 122.3M780.0 98.1L783.3 98.7"/>
</g>
<g fill="none" stroke-width=".42">
<path d="M734.5 138.1l12.2-6.4 12.3-6 13.8-6.2 13.1-5.3 13.1-4.8 12.9-4.3 12.4-3.5 11.7-2.8M884 107.7l-1.8 4.7-3.4 5.2-5 5.7-6.6 6.1-7.9 6.2-9.8 7-10 6.3-11.4 6.7" stroke="#00c000" stroke-dasharray="2 1"/>
<path d="M759.3 142.8l10.4-5.4 10.9-4.8 11.3-4.2 10.3-3 9.4-2 7.5-.8 5.9 .5 1.9 .6 1.7 1.1 1 1.9-.2 2.6-1.6 2.9-2.8 3.4-4 3.6-5.1 3.9-5.7 3.8-6.9 4" stroke="#0000ff" stroke-dasharray="1 2"/>
<path d="M768.3 144.4l6.3-3.2 6.2-2.7 6.6-2.5 6.4-1.9 5.9-1.2 4.4-.4 3.2 .4 1.9 1 .6 1.3-.1 1.3-1 1.8-1.5 1.7-5.1 4.4-7.8 4.9" stroke="#ff00ff" stroke-dasharray=".7 .5"/>
<path d="M773.7 145.4l7.3-3.5 7.4-2.5 5.8-.9 2 .1 1.3 .5 .5 .6 0 .8-1.5 2.4-3.4 2.8-4.2 2.6" stroke="#00ffff" stroke-dasharray="2.5 1 .6 1"/>
<path d="M778.7 146.4l4.9-2 2.2-.4 1.1 .2 .2 .3-.5 .9-2.7 1.9" stroke="#e8e800" stroke-dasharray=".8 1.5"/>
</g>
<g fill="none" stroke="#000" stroke-width=".6">
<path d="M714.5 134.4L714.5 47.3M714.5 105.5L718.0 105.5M714.5 93.5L718.0 93.5M714.5 81.5L718.0 81.5M714.5 70.5L718.0 70.5M714.5 58.5L718.0 58.5M714.5 47.5L718.0 47.5M848.5 159.3L848.5 74.2"/>
</g>
<linearGradient id="Pc" gradientUnits="userSpaceOnUse" x1="714.40" y1="68.69" x2="717.41" y2="52.49"><stop offset="0" stop-color="#ecdce6"/><stop offset="0.033" stop-color="#e2cdd9"/><stop offset="0.065" stop-color="#d4b9c6"/><stop offset="0.109" stop-color="#c3a0ac"/><stop offset="0.163" stop-color="#aa8087"/><stop offset="0.218" stop-color="#91625f"/><stop offset="0.272" stop-color="#7a463a"/><stop offset="0.316" stop-color="#642816"/><stop offset="0.364" stop-color="#46050a"/><stop offset="0.414" stop-color="#390146"/><stop offset="0.422" stop-color="#370050"/><stop offset="0.485" stop-color="#32008c"/><stop offset="0.551" stop-color="#3200be"/><stop offset="0.614" stop-color="#2d00e6"/><stop offset="0.693" stop-color="#1e00ff"/><stop offset="0.724" stop-color="#1223ff"/><stop offset="0.792" stop-color="#0058ff"/><stop offset="0.914" stop-color="#0096ff"/><stop offset="0.931" stop-color="#00cdff"/><stop offset="0.943" stop-color="#00ebff"/><stop offset="0.952" stop-color="#00ffff"/><stop offset="1" stop-color="#00ffff"/></linearGradient>
<g stroke-width=".25" stroke-linejoin="round" fill="url(#Pc)" stroke="url(#Pc)"><path d="M779.4 13.1l66.9 14.6 66.9 10.3 13.7-7.6-66.9-10.9-66.9-14z" fill="#00ffff" stroke="#00ffff"/><path d="M766.3 20.5l66.9 15.4 66.9 9.5 13.7-7.7-66.9-10.3-66.9-14.6z" fill="#00ffff" stroke="#00ffff"/><path d="M763 22.3l26.4 5.8 40.5 9.9 40.5 5.2 26.4 4 3.9-2.2-66.9-9.4-66.9-15.5z" fill="#00ffff" stroke="#00ffff"/><path d="M761.4 23.2l27.1 6 39.8 9.9 39.8 5 27.1 4 2.2-1.2-26.1-4-40.8-5.2-40.8-10-26.1-5.7z" fill="#00ffff" stroke="#00ffff"/><path d="M760.5 23.7l27.5 6.1 39.4 9.8 39.5 4.9 27.4 4.1 1.4-.8-26.7-4-40.2-5.1-40.1-9.9-26.8-5.9z" fill="#00ffff" stroke="#00ffff"/><path d="M760.1 23.9l27.5 6.1 39.4 9.9 39.5 4.8 27.4 4.1 1-.6-27.1-4-39.8-4.9-39.8-9.9-27.1-6.1z" fill="#00ffff" stroke="#00ffff"/><path transform="translate(46.11 -25.55)" d="M713.6 49.7l27.8 6.2 39.1 9.8 39.1 4.7 27.8 4.2 1-.6-27.4-4.1-39.5-4.8-39.5-9.9-27.4-6.1z"/><path transform="translate(45.7 -25.32)" d="M713.6 49.7l27.8 6.2 39.1 9.9 39.1 4.7 27.8 4.1 1-.6-27.4-4.1-39.5-4.8-39.5-9.9-27.4-6.1z"/><path transform="translate(45.29 -25.09)" d="M713.6 49.7l28.1 6.3 38.8 9.8 38.8 4.6 28.1 4.2 1-.6-27.8-4.1-39.1-4.7-39.1-9.9-27.8-6.2z"/><path transform="translate(44.88 -24.87)" d="M713.6 49.7l28.1 6.3 38.8 9.9 38.8 4.5 28.1 4.2 1-.6-27.8-4.1-39.1-4.7-39.1-9.9-27.8-6.2z"/><path transform="translate(44.47 -24.64)" d="M713.6 49.7l28.4 6.4 38.5 9.8 38.5 4.5 28.4 4.2 1-.6-28.1-4.1-38.8-4.7-38.8-9.8-28.1-6.3z"/><path transform="translate(44.06 -24.41)" d="M713.6 49.7l28.4 6.4 38.5 9.9 38.5 4.4 28.4 4.2 1-.6-28.1-4.1-38.8-4.6-38.8-9.9-28.1-6.3z"/><path transform="translate(43.65 -24.18)" d="M713.6 49.7l28.8 6.5 38.1 9.8 38.1 4.4 28.8 4.2 1-.6-28.4-4.2-38.5-4.5-38.5-9.8-28.4-6.4z"/><path transform="translate(43.24 -23.96)" d="M713.6 49.7l28.8 6.5 38.1 9.9 38.1 4.3 28.8 4.2 1-.6-28.4-4.2-38.5-4.4-38.5-9.9-28.4-6.4z"/><path transform="translate(42.83 -23.73)" d="M713.6 49.7l29.1 6.6 37.8 9.8 37.8 4.2 29.1 4.3 1-.6-28.4-4.2-38.5-4.4-38.5-9.9-28.4-6.4z"/><path transform="translate(42.42 -23.5)" d="M713.6 49.7l29.1 6.6 37.8 9.8 37.8 4.2 29.1 4.3 1-.6-28.8-4.2-38.1-4.3-38.1-9.9-28.8-6.5z"/><path transform="translate(42.01 -23.28)" d="M713.6 49.7l29.4 6.7 37.5 9.8 37.5 4.1 29.4 4.3 1-.6-28.8-4.2-38.1-4.3-38.1-9.9-28.8-6.5z"/><path transform="translate(41.6 -23.05)" d="M713.6 49.7l29.4 6.7 37.5 9.8 37.5 4.1 29.4 4.3 1-.6-29.1-4.2-37.8-4.2-37.8-9.9-29.1-6.6z"/><path transform="translate(41.19 -22.82)" d="M713.6 49.7l29.8 6.7 37.1 9.9 37.1 4 29.8 4.3 1-.6-29.1-4.2-37.8-4.2-37.8-9.9-29.1-6.6z"/><path transform="translate(40.78 -22.59)" d="M713.6 49.7l29.8 6.8 37.1 9.8 37.1 4 29.8 4.3 1-.6-29.4-4.3-37.5-4-37.5-9.9-29.4-6.7z"/><path transform="translate(40.37 -22.37)" d="M713.6 49.7l30.1 6.9 36.8 9.8 36.8 3.8 30.1 4.4 1-.6-29.4-4.2-37.5-4.1-37.5-9.9-29.4-6.7z"/><path transform="translate(39.96 -22.14)" d="M713.6 49.7l30.1 6.9 36.8 9.9 36.8 3.8 30.1 4.3 1-.6-29.8-4.3-37.1-3.9-37.1-9.9-29.8-6.8z"/><path transform="translate(39.55 -21.91)" d="M713.6 49.7l30.4 6.9 36.5 9.9 36.5 3.7 30.4 4.4 1-.6-29.8-4.3-37.1-3.9-37.1-9.9-29.8-6.8z"/><path transform="translate(39.15 -21.69)" d="M713.6 49.7l30.4 7 36.5 9.9 36.5 3.6 30.4 4.4 1-.6-30.1-4.3-36.8-3.8-36.8-9.9-30.1-6.9z"/><path transform="translate(38.74 -21.46)" d="M713.6 49.7l30.8 7 36.1 9.9 36.1 3.6 30.8 4.4 1-.6-30.1-4.3-36.8-3.8-36.8-9.9-30.1-6.9z"/><path transform="translate(38.33 -21.23)" d="M713.6 49.7l30.8 7.1 36.1 9.9 36.1 3.5 30.8 4.4 1-.6-30.4-4.3-36.5-3.7-36.5-9.9-30.4-7z"/><path transform="translate(37.92 -21.01)" d="M713.6 49.7l31.1 7.2 35.8 9.8 35.8 3.5 31.1 4.4 1-.5-30.4-4.4-36.5-3.7-36.5-9.9-30.4-6.9z"/><path transform="translate(37.51 -20.78)" d="M713.6 49.7l31.1 7.2 35.8 9.9 35.8 3.4 31.1 4.4 1-.5-30.8-4.5-36.1-3.5-36.1-9.9-30.8-7z"/><path transform="translate(37.1 -20.55)" d="M713.6 49.7l31.1 7.2 35.8 10 35.8 3.3 31.1 4.4 1-.6-30.8-4.4-36.1-3.4-36.1-10-30.8-7.1z"/><path transform="translate(36.69 -20.32)" d="M713.6 49.7l31.4 7.3 35.5 9.9 7 1 28.5 2.2 31.4 4.5 1-.6-31.1-4.4-35.8-3.4-35.8-9.9-31.1-7.2z"/><path transform="translate(36.28 -20.1)" d="M713.6 49.7l31.4 7.3 35.5 10 7 .9 28.5 2.3 31.4 4.4 1-.5-31.1-4.5-35.8-3.3-35.8-10-31.1-7.1z"/><path transform="translate(35.87 -19.87)" d="M713.6 49.7l31.8 7.4 35.1 9.9 6.7 .9 28.4 2.2 31.8 4.5 1-.5-31.4-4.5-28.5-2.3-7-1-35.5-9.9-31.4-7.2z"/><path transform="translate(35.46 -19.64)" d="M713.6 49.7l31.8 7.4 35.1 10 6.7 .9 28.4 2.1 31.8 4.5 1-.5-31.4-4.5-28.5-2.3-7-.9-35.5-10-31.4-7.2z"/><path transform="translate(35.05 -19.42)" d="M713.6 49.7l32.1 7.5 34.8 10 6.7 .9 28.1 2 32.1 4.5 1-.5-31.8-4.5-28.4-2.2-6.7-.9-35.1-10-31.8-7.3z"/><path transform="translate(34.64 -19.19)" d="M713.6 49.7l32.1 7.5 34.8 10 6.7 .9 28.1 2 32.1 4.5 1-.5-31.8-4.5-28.4-2.2-6.7-.9-35.1-10-31.8-7.3z"/><path transform="translate(34.23 -18.96)" d="M713.6 49.7l32.4 7.6 28.1 8.5 6.4 1.5 6.4 .8 28.1 2 32.4 4.5 1-.5-32.1-4.6-28.1-2-6.7-.9-34.8-10-32.1-7.4z"/><path transform="translate(33.82 -18.73)" d="M713.6 49.7l32.4 7.6 28.1 8.5 6.4 1.6 6.4 .8 28.1 1.9 32.4 4.5 1-.5-32.1-4.5-28.1-2.1-6.7-.8-34.8-10.1-32.1-7.4z"/><path transform="translate(33.41 -18.51)" d="M713.6 49.7l32.8 7.7 27.7 8.5 6.4 1.5 6.4 .9 27.7 1.8 32.8 4.5 1-.5-32.4-4.6-27.8-1.9-6.7-.9-6.7-1.6-27.8-8.4-32.4-7.5z"/><path transform="translate(33 -18.28)" d="M713.6 49.7l32.8 7.7 27.7 8.5 6.4 1.6 6.4 .8 27.7 1.8 32.8 4.5 1-.5-32.4-4.6-28.1-1.9-6.4-.8-6.4-1.6-28.1-8.5-32.4-7.5z"/><path transform="translate(32.59 -18.05)" d="M713.6 49.7l33.1 7.8 27.4 8.5 6.4 1.6 6.4 .8 27.4 1.6 33.1 4.6 1-.5-32.8-4.6-27.7-1.8-6.4-.8-6.4-1.6-27.7-8.5-32.8-7.6z"/><path transform="translate(32.18 -17.83)" d="M713.6 49.7l33.1 7.8 27.8 8.7 6 1.5 6 .7 27.8 1.7 33.1 4.5 1-.5-32.8-4.6-27.7-1.8-6.4-.8-6.4-1.5-27.7-8.6-32.8-7.6z"/><path transform="translate(31.77 -17.6)" d="M713.6 49.7l33.5 7.9 27.4 8.6 6 1.5 6 .8 27.5 1.5 33.4 4.6 1-.5-33.1-4.6-27.4-1.7-6.4-.8-6.4-1.6-27.4-8.5-33.1-7.7z"/><path transform="translate(31.36 -17.37)" d="M713.6 49.7l33.5 7.9 27.4 8.7 6 1.5 6 .7 27.5 1.5 33.4 4.6 1-.5-33.1-4.6-27.8-1.7-6-.7-6-1.5-27.8-8.7-33.1-7.7z"/><path transform="translate(30.95 -17.14)" d="M713.6 49.7l33.8 8 27.1 8.7 6 1.5 6 .7 27.1 1.4 33.8 4.6 1-.5-33.4-4.6-27.5-1.6-6-.8-6-1.5-27.4-8.6-33.5-7.8z"/><path transform="translate(30.54 -16.92)" d="M713.6 49.7l33.8 8 27.4 8.8 5.7 1.5 5.7 .7 16 .4 11.4 .9 33.8 4.6 1-.5-33.4-4.6-27.5-1.5-6-.8-6-1.5-27.4-8.7-33.5-7.8z"/><path transform="translate(30.13 -16.69)" d="M713.6 49.7l34.1 8.1 27.1 8.8 5.7 1.4 5.7 .7 15.7 .5 11.4 .8 34.1 4.6 1-.5-33.8-4.6-27.1-1.5-6-.7-6-1.5-27.1-8.7-33.8-7.9z"/><path transform="translate(29.72 -16.46)" d="M713.6 49.7l34.1 8.1 11.4 3.4 15.7 5.5 5.7 1.4 5.7 .7 15.7 .4 11.4 .8 34.1 4.6 1-.5-33.8-4.6-11.4-.9-15.7-.5-6-.7-6-1.6-27.1-8.7-33.8-7.9z"/><path transform="translate(29.31 -16.24)" d="M713.6 49.7l34.5 8.2 11.3 3.4 15.4 5.4 5.7 1.5 5.7 .7 15.4 .3 11.3 .8 34.5 4.6 1-.5-34.1-4.7-11.4-.8-15.7-.5-5.7-.6-5.7-1.5-27.1-8.8-34.1-8z"/><path transform="translate(28.9 -16.01)" d="M713.6 49.7l34.5 8.2 11.3 3.5 15.4 5.4 5.7 1.5 5.7 .6 15.4 .3 11.3 .8 34.5 4.6 1-.5-34.1-4.7-11.4-.8-15.7-.4-5.7-.7-5.7-1.4-15.7-5.5-11.4-3.4-34.1-8z"/><path transform="translate(28.49 -15.78)" d="M713.6 49.7l34.8 8.3 11.4 3.5 15.4 5.5 5.3 1.4 5.4 .6 15.3 .2 11.4 .8 34.8 4.6 1-.5-34.5-4.7-11.3-.8-15.4-.3-5.7-.7-5.7-1.4-15.4-5.4-11.3-3.5-34.5-8.1z"/><path transform="translate(28.08 -15.56)" d="M713.6 49.7l34.8 8.3 11.4 3.5 15.4 5.6 5.3 1.4 5.4 .6 15.3 .1 11.4 .8 34.8 4.6 1-.5-34.5-4.7-11.3-.8-15.4-.3-5.7-.6-5.7-1.5-15.4-5.4-11.3-3.4-34.5-8.2z"/><path transform="translate(27.67 -15.33)" d="M713.6 49.7l35.1 8.4 11.4 3.5 15.1 5.5 5.3 1.4 5.4 .6 15 .1 11.4 .8 35.1 4.6 1-.5-34.8-4.7-11.4-.8-15-.2-5.7-.6-5.7-1.5-15-5.4-11.4-3.4-34.8-8.3z"/><path transform="translate(27.26 -15.1)" d="M713.6 49.7l35.1 8.4 11.4 3.6 15.1 5.5 5.3 1.4 5.4 .6 15 .1 11.4 .7 35.1 4.6 1-.5-34.8-4.7-11.4-.7-15.3-.2-5.4-.6-5.3-1.4-15.4-5.6-11.4-3.4-34.8-8.3z"/><path transform="translate(26.85 -14.87)" d="M713.6 49.7l35.5 8.5 11.3 3.6 14.8 5.5 5.3 1.4 5.4 .6 14.7 0 11.3 .6 35.5 4.7 1-.5-34.8-4.7-11.4-.7-15.3-.2-5.4-.6-5.3-1.4-15.4-5.5-11.4-3.5-34.8-8.3z"/><path transform="translate(26.44 -14.65)" d="M713.6 49.7l35.5 8.5 11.3 3.6 15.1 5.7 5 1.3 5 .6 15.1-.1 11.3 .7 35.5 4.6 1-.5-35.1-4.7-11.4-.7-15-.1-5.4-.6-5.3-1.4-15.1-5.5-11.4-3.5-35.1-8.4z"/><path transform="translate(26.03 -14.42)" d="M713.6 49.7l35.8 8.6 11.4 3.7 14.7 5.6 5 1.3 5 .5 14.7-.1 11.4 .6 15.4 1.7 20.4 3 1-.5-35.1-4.7-11.4-.7-15 0-5.4-.6-5.3-1.4-15.1-5.6-11.4-3.5-35.1-8.4z"/><path transform="translate(25.62 -14.19)" d="M713.6 49.7l20.4 4.6 15.4 4.1 11.4 3.6 14.7 5.6 5 1.4 5 .5 14.7-.2 11.4 .6 15.4 1.7 20.4 3 1-.5-35.5-4.7-11.3-.7-15.1 .1-5-.6-5-1.3-15.1-5.6-11.3-3.6-35.5-8.5z"/><path transform="translate(25.21 -13.97)" d="M713.6 49.8l20.7 4.6 15.4 4.1 11.1 3.5 14.7 5.7 5 1.4 5 .5 14.7-.2 11.1 .5 15.4 1.7 20.7 3.1 1-.6-35.5-4.7-11.3-.6-15.1 0-5-.5-5-1.3-15.1-5.7-11.3-3.6-35.5-8.5z"/><path transform="translate(24.8 -13.74)" d="M713.6 49.7l20.7 4.7 15.4 4.1 11.4 3.7 14.4 5.6 5 1.4 5 .5 14.4-.3 11.4 .5 15.4 1.7 20.7 3 1-.5-20.4-3-15.4-1.7-11.4-.6-14.7 .1-5-.5-5-1.3-14.7-5.7-11.4-3.6-35.8-8.6z"/><path transform="translate(24.39 -13.51)" d="M713.6 49.7l21.1 4.8 15.4 4.1 11 3.6 14.7 5.8 4.7 1.3 4.7 .5 14.7-.4 11 .5 15.4 1.7 21.1 3 1-.5-20.4-3-15.4-1.7-11.4-.6-14.7 .2-5-.5-5-1.4-14.7-5.7-11.4-3.6-15.4-4-20.4-4.6z"/><path transform="translate(23.98 -13.28)" d="M713.6 49.7l21.1 4.8 15.4 4.1 11.3 3.7 14.4 5.8 4.7 1.3 4.7 .4 14.4-.4 11.3 .5 15.4 1.7 21.1 3 1-.5-20.7-3-15.4-1.7-11.4-.6-14.4 .3-5-.5-5-1.4-14.4-5.6-11.4-3.7-15.4-4-20.7-4.7z"/><path transform="translate(23.57 -13.06)" d="M713.6 49.8l21.4 4.8 15.4 4.1 11 3.7 14.4 5.8 4.7 1.3 4.7 .4 14.4-.5 11 .5 15.4 1.6 21.4 3.2 1-.6-20.7-3-15.4-1.7-11.4-.6-14.7 .4-4.7-.5-4.7-1.3-14.7-5.8-11.4-3.7-15.4-4-20.7-4.7z"/><path transform="translate(23.16 -12.83)" d="M713.6 49.8l21.4 4.8 15.4 4.1 11.4 3.8 14 5.8 4.7 1.3 4.7 .4 14-.5 11.4 .4 15.4 1.6 21.4 3.2 1-.6-21.1-3.1-15.4-1.6-11.3-.5-14.4 .4-4.7-.5-4.7-1.3-14.4-5.7-11.3-3.8-15.4-4-21.1-4.8z"/><path transform="translate(22.75 -12.6)" d="M713.6 49.7l21.4 4.9 15.7 4.2 11.1 3.7 14 5.9 4.7 1.3 4.7 .4 14-.6 11.1 .4 15.7 1.6 21.4 3.1 1-.5-21.1-3.1-15.4-1.6-11.3-.5-14.4 .4-4.7-.4-4.7-1.3-14.4-5.8-11.3-3.8-15.4-4-21.1-4.8z"/><path transform="translate(22.34 -12.38)" d="M713.6 49.8l21.4 4.8 15.7 4.2 11.1 3.8 14.4 6 4.3 1.2 4.4 .4 14.3-.7 11.1 .4 15.7 1.6 21.4 3.2 1-.6-21.4-3.1-15.4-1.6-11-.5-14.4 .5-4.7-.4-4.7-1.3-14.4-5.9-11-3.7-15.4-4-21.4-4.9z"/><path transform="translate(21.93 -12.15)" d="M713.6 49.8l21.4 4.8 15.7 4.2 11.4 3.9 14.1 6 4.3 1.2 4.4 .4 14-.8 11.4 .4 15.7 1.6 21.4 3.2 1-.6-21.4-3.1-15.4-1.6-11.4-.5-14 .6-4.7-.4-4.7-1.3-14-5.8-11.4-3.8-15.4-4.1-21.4-4.9z"/><path transform="translate(21.52 -11.92)" d="M713.6 49.8l21.7 4.9 15.8 4.2 11 3.8 14.1 6.1 4.3 1.2 4.4 .4 14-.8 11 .3 15.8 1.6 21.7 3.2 1-.6-21.4-3.1-15.7-1.7-11.1-.3-14 .6-4.7-.4-4.7-1.3-14-5.9-11.1-3.7-15.7-4.2-21.4-4.9z"/><path transform="translate(21.11 -11.69)" d="M713.6 49.8l21.7 4.9 15.8 4.2 9.7 3.3 14.7 6.4 5 1.5 5 .4 14.7-.9 9.7 .3 15.8 1.6 21.7 3.2 1-.6-21.4-3.1-15.7-1.7-11.4-.3-14 .7-4.4-.4-4.3-1.2-14.1-6-11.4-3.8-15.7-4.2-21.4-4.9z"/><path transform="translate(20.7 -11.47)" d="M713.6 49.8l22.1 5 15.7 4.3 9.7 3.3 14.4 6.3 5 1.6 5 .3 14.4-1 9.7 .3 15.7 1.6 22.1 3.2 1-.6-21.7-3.1-15.8-1.7-11-.3-14 .8-4.4-.4-4.3-1.2-14.1-6-11-3.8-15.8-4.3-21.7-4.9z"/><path transform="translate(20.29 -11.24)" d="M713.6 49.8l22.1 5 15.7 4.3 9.7 3.3 14.7 6.5 4.7 1.5 4.7 .3 14.7-1.1 9.7 .3 15.7 1.6 22.1 3.2 1-.6-21.7-3.1-15.8-1.7-9.7-.3-14.7 .9-5-.4-5-1.5-14.7-6.3-9.7-3.3-15.8-4.3-21.7-4.9z"/><path transform="translate(19.88 -11.01)" d="M713.6 49.8l22.4 5.1 15.7 4.3 9.7 3.4 14.4 6.4 4.7 1.5 4.7 .3 14.4-1.2 9.7 .3 15.7 1.5 22.4 3.3 1-.6-22.1-3.2-15.7-1.6-9.7-.3-14.4 1-5-.3-5-1.6-14.4-6.3-9.7-3.3-15.7-4.3-22.1-5z"/><path transform="translate(19.47 -10.79)" d="M713.6 49.8l22.4 5.1 15.7 4.3 9.7 3.4 14.4 6.5 4.7 1.5 4.7 .3 14.4-1.2 9.7 .2 15.7 1.5 22.4 3.3 1-.6-22.1-3.2-15.7-1.6-9.7-.2-14.4 1-5-.3-5-1.6-14.4-6.4-9.7-3.3-15.7-4.3-22.1-5z"/><path transform="translate(19.06 -10.56)" d="M713.6 49.8l22.8 5.2 15.7 4.3 9.7 3.4 14 6.5 4.7 1.5 4.7 .3 14-1.3 9.7 .2 15.8 1.5 22.7 3.3 1-.6-22.4-3.2-15.7-1.6-9.7-.2-14.4 1.1-4.7-.3-4.7-1.5-14.4-6.4-9.7-3.4-15.7-4.3-22.4-5.1z"/><path transform="translate(18.65 -10.33)" d="M713.6 49.8l22.8 5.2 15.7 4.3 9.7 3.5 14 6.5 4.7 1.5 4.7 .3 14-1.4 9.7 .2 15.8 1.5 22.7 3.3 1-.6-22.4-3.2-15.7-1.6-9.7-.2-14.4 1.2-4.7-.3-4.7-1.5-14.4-6.5-9.7-3.4-15.7-4.3-22.4-5.1z"/><path transform="translate(18.24 -10.11)" d="M713.6 49.8l22.8 5.2 16 4.4 9.7 3.5 13.7 6.5 4.7 1.6 4.7 .2 13.7-1.4 9.7 .1 16.1 1.5 22.7 3.3 1-.6-22.7-3.3-15.8-1.5-9.7-.2-14 1.3-4.7-.3-4.7-1.5-14-6.4-9.7-3.5-15.7-4.3-22.8-5.2z"/><path transform="translate(17.83 -9.88)" d="M713.6 49.8l22.8 5.2 16 4.4 9.7 3.5 14.1 6.8 4.3 1.4 4.4 .2 14-1.5 9.7 .1 16.1 1.5 22.7 3.3 1-.6-22.7-3.3-15.8-1.5-9.7-.1-14 1.3-4.7-.3-4.7-1.5-14-6.5-9.7-3.4-15.7-4.4-22.8-5.2z"/><path transform="translate(17.42 -9.65)" d="M713.6 49.8l23.1 5.3 16 4.4 9.7 3.6 13.8 6.7 4.3 1.4 4.4 .2 13.7-1.6 9.7 .1 16 1.5 23.1 3.3 1-.6-22.7-3.3-16.1-1.5-9.7-.1-13.7 1.4-4.7-.2-4.7-1.6-13.7-6.4-9.7-3.5-16-4.5-22.8-5.2z"/><path transform="translate(17.01 -9.42)" d="M713.6 49.8l23.1 5.3 16 4.5 9.7 3.5 13.8 6.8 4.3 1.4 4.4 .2 13.7-1.7 9.7 .1 16 1.5 23.1 3.3 1-.6-22.7-3.3-16.1-1.5-9.7-.1-13.7 1.5-4.7-.2-4.7-1.6-13.7-6.5-9.7-3.5-16-4.5-22.8-5.2z"/><path transform="translate(16.6 -9.2)" d="M713.6 49.8l23.4 5.4 16.1 4.5 9.7 3.6 13.4 6.7 4.3 1.5 4.4 .1 13.3-1.7 9.7 0 16.1 1.4 23.4 3.4 1-.6-22.7-3.2-16.1-1.6-9.7-.1-14 1.6-4.4-.2-4.3-1.4-14.1-6.8-9.7-3.5-16-4.5-22.8-5.2z"/><path transform="translate(16.19 -8.97)" d="M713.6 49.8l23.4 5.4 16.1 4.5 9.7 3.6 13.4 6.8 4.3 1.5 4.4 .1 13.3-1.8 9.7 0 16.1 1.4 23.4 3.4 1-.6-23.1-3.3-16-1.5-9.7 0-13.7 1.6-4.4-.2-4.3-1.4-13.8-6.7-9.7-3.6-16-4.5-23.1-5.3z"/><path transform="translate(15.78 -8.74)" d="M713.6 49.8l23.4 5.3 16.1 4.6 10 3.8 13.1 6.7 4.3 1.5 4.4 .1 13-1.8 10-.1 16.1 1.4 23.4 3.4 1-.6-23.1-3.3-16-1.5-9.7 0-13.7 1.7-4.4-.1-4.3-1.5-13.8-6.8-9.7-3.6-16-4.5-23.1-5.3z"/><path transform="translate(15.37 -8.52)" d="M713.6 49.8l23.8 5.4 16 4.6 9.7 3.7 13.1 6.8 4.3 1.6 4.4 .1 13-2 9.7-.1 16.1 1.4 23.7 3.4 1-.6-23.4-3.3-16.1-1.5-9.7 .1-13.3 1.7-4.4-.1-4.3-1.5-13.4-6.7-9.7-3.7-16.1-4.5-23.4-5.4z"/><path transform="translate(14.96 -8.29)" d="M713.6 49.8l23.8 5.4 16 4.6 9.7 3.7 13.4 7.1 4 1.4 4 .1 13.4-2.1 9.7-.1 16.1 1.4 23.7 3.4 1-.6-23.4-3.3-16.1-1.5-9.7 .1-13.3 1.8-4.4-.1-4.3-1.5-13.4-6.8-9.7-3.7-16.1-4.5-23.4-5.4z"/><path transform="translate(14.55 -8.06)" d="M713.6 49.8l24.1 5.5 16 4.6 9.7 3.8 13.1 7 4 1.4 4 .1 13.1-2.1 9.7-.2 16 1.4 24.1 3.4 1-.6-23.7-3.4-16.1-1.4-9.7 .1-13 1.9-4.4-.1-4.3-1.5-13.1-6.8-9.7-3.7-16-4.5-23.8-5.5z"/><path transform="translate(14.14 -7.83)" d="M713.6 49.8l24.1 5.5 16 4.6 9.7 3.8 13.1 7.1 4 1.5 4 0 13.1-2.2 9.7-.2 16 1.4 24.1 3.4 1-.6-23.7-3.4-16.1-1.4-9.7 .1-13.4 2.1-4-.1-4-1.4-13.4-7-9.7-3.7-16-4.6-23.8-5.5z"/><path transform="translate(13.73 -7.61)" d="M713.6 49.8l24.1 5.5 16.4 4.8 9.7 3.8 12.7 7 4 1.5 4 0 12.7-2.3 9.7-.2 16.4 1.4 24.1 3.4 1-.6-24.1-3.4-16-1.4-9.7 .2-13.1 2.1-4-.1-4-1.4-13.1-7-9.7-3.7-16-4.6-24.1-5.6z"/><path transform="translate(13.32 -7.38)" d="M713.6 49.8l24.1 5.5 16.4 4.8 9.7 3.8 12.7 7.1 4 1.5 4 0 12.7-2.3 9.7-.3 16.4 1.4 24.1 3.4 1-.6-24.1-3.4-16-1.4-9.7 .2-13.1 2.2-4-.1-4-1.4-13.1-7-9.7-3.8-16-4.6-24.1-5.6z"/><path transform="translate(12.91 -7.15)" d="M713.6 49.8l24.1 5.5 16.4 4.8 10 4 12.4 7.1 4 1.4 4 0 12.4-2.4 10-.3 16.4 1.4 24.1 3.4 1-.6-24.1-3.4-16-1.3-10.1 .2-12.7 2.2-4 0-4-1.5-12.7-7-10.1-3.9-16-4.6-24.1-5.6z"/><path transform="translate(12.5 -6.93)" d="M713.6 49.8l24.4 5.6 16.4 4.8 9.7 3.9 12.4 7.2 4 1.5 4 0 12.4-2.6 9.7-.3 16.4 1.3 24.4 3.5 1-.6-24.1-3.4-16.4-1.3-9.7 .2-12.7 2.3-4 0-4-1.5-12.7-7-9.7-3.9-16.4-4.7-24.1-5.6z"/><path transform="translate(12.09 -6.7)" d="M713.6 49.8l24.4 5.6 16.4 4.8 9.7 4 12.7 7.4 3.7 1.3 3.7 0 12.7-2.6 9.7-.4 16.4 1.3 24.4 3.5 1-.6-24.1-3.4-16.4-1.3-9.7 .2-12.7 2.4-4 0-4-1.4-12.7-7.2-9.7-3.9-16.4-4.7-24.1-5.6z"/><path transform="translate(11.68 -6.47)" d="M713.6 49.8l24.4 5.6 16.4 4.8 10.1 4.1 12.3 7.4 3.7 1.3 3.7 0 12.4-2.7 10-.4 16.4 1.3 24.4 3.5 1-.6-24.4-3.4-16.4-1.3-9.7 .3-12.4 2.5-4 0-4-1.5-12.4-7.1-9.7-4-16.4-4.7-24.4-5.7z"/><path transform="translate(11.27 -6.24)" d="M713.6 49.8l24.8 5.7 16.4 4.8 9.7 4.1 12.3 7.4 3.7 1.4 3.7-.1 12.4-2.8 9.7-.4 16.4 1.3 24.7 3.5 1-.6-24.4-3.4-16.4-1.3-9.7 .3-12.4 2.6-4 0-4-1.5-12.4-7.2-9.7-4-16.4-4.7-24.4-5.7z"/><path transform="translate(10.86 -6.02)" d="M713.6 49.8l24.8 5.7 16.4 4.9 10 4.2 12 7.3 3.7 1.4 3.7 0 12-2.9 10.1-.5 16.4 1.3 24.7 3.5 1-.6-24.4-3.4-16.4-1.3-10 .4-12.4 2.6-3.7 0-3.7-1.3-12.3-7.3-10.1-4.1-16.4-4.8-24.4-5.7z"/><path transform="translate(10.45 -5.79)" d="M713.6 49.8l25.1 5.8 16.4 4.9 9.7 4.1 12 7.4 3.7 1.4 3.7 0 12-3 9.7-.5 16.4 1.3 25.1 3.5 1-.6-24.7-3.5-16.4-1.2-9.7 .4-12.4 2.7-3.7 .1-3.7-1.4-12.3-7.4-9.7-4-16.4-4.8-24.8-5.8z"/><path transform="translate(10.04 -5.56)" d="M713.6 49.8l25.1 5.8 16.4 4.9 9.7 4.1 12 7.5 3.7 1.4 3.7 0 12-3.1 9.7-.5 16.4 1.3 25.1 3.5 1-.6-24.7-3.5-16.4-1.2-9.7 .4-12.4 2.8-3.7 .1-3.7-1.4-12.3-7.5-9.7-4-16.4-4.8-24.8-5.8z"/><path transform="translate(9.63 -5.34)" d="M713.6 49.8l25.1 5.8 16.4 4.9 10 4.3 11.7 7.4 3.7 1.5 3.7-.1 11.7-3.1 10-.5 16.4 1.2 25.1 3.5 1-.6-24.7-3.4-16.4-1.3-10.1 .5-12 2.9-3.7 0-3.7-1.4-12-7.4-10-4.2-16.4-4.8-24.8-5.8z"/><path transform="translate(9.22 -5.11)" d="M713.6 49.8l25.4 5.9 16.4 4.9 9.7 4.2 11.7 7.5 3.7 1.5 3.7-.1 11.7-3.2 9.7-.5 16.4 1.1 25.4 3.6 1-.6-25.1-3.5-16.4-1.2-9.7 .5-12 3-3.7 0-3.7-1.4-12-7.5-9.7-4.1-16.4-4.8-25.1-5.9z"/><path transform="translate(8.81 -4.88)" d="M713.6 49.8l25.4 5.9 16.4 4.9 9.7 4.2 11.7 7.6 3.7 1.5 3.7-.1 11.7-3.3 9.7-.5 16.4 1.1 25.4 3.6 1-.6-25.1-3.5-16.4-1.2-9.7 .5-12 3.1-3.7 .1-3.7-1.5-12-7.6-9.7-4.1-16.4-4.8-25.1-5.9z"/><path transform="translate(8.4 -4.66)" d="M713.6 49.8l25.4 5.9 16.4 4.9 9.7 4.2 12.1 7.9 3.3 1.3 3.4-.1 12-3.3 9.7-.6 16.4 1.1 25.4 3.6 1-.6-25.1-3.5-16.4-1.2-10 .6-11.7 3.1-3.7 .1-3.7-1.5-11.7-7.5-10-4.3-16.4-4.8-25.1-5.9z"/><path transform="translate(7.99 -4.43)" d="M713.6 49.8l25.4 5.9 16.4 4.9 10.1 4.4 11.7 7.8 3.3 1.3 3.4-.1 11.7-3.4 10-.6 16.4 1.1 25.4 3.6 1-.6-25.4-3.5-16.4-1.2-9.7 .6-11.7 3.2-3.7 .1-3.7-1.5-11.7-7.5-9.7-4.2-16.4-5-25.4-5.9z"/><path transform="translate(7.58 -4.2)" d="M713.6 49.8l25.8 6 16.4 5 9.7 4.3 11.7 7.8 3.3 1.3 3.4-.1 11.7-3.4 9.7-.7 16.4 1.1 25.7 3.6 1-.6-25.4-3.5-16.4-1.2-9.7 .6-11.7 3.3-3.7 .1-3.7-1.5-11.7-7.6-9.7-4.2-16.4-5-25.4-5.9z"/><path transform="translate(7.17 -3.97)" d="M713.6 49.8l25.8 6 16.4 5 9.7 4.3 11.7 7.9 3.3 1.3 3.4-.1 11.7-3.5 9.7-.7 16.4 1.1 25.7 3.6 1-.6-25.4-3.5-16.4-1.2-10 .7-11.7 3.3-3.4 .1-3.3-1.3-11.7-7.7-10.1-4.4-16.4-5-25.4-5.9z"/><path transform="translate(6.76 -3.75)" d="M713.6 49.8l25.8 6 16.4 5 9.7 4.3 11.7 7.9 3.3 1.5 3.4-.2 11.7-3.6 9.7-.7 16.4 1.1 25.7 3.6 1-.6-25.7-3.5-16.4-1.2-9.7 .7-11.7 3.4-3.4 .2-3.3-1.4-11.7-7.8-9.7-4.3-16.4-5-25.8-6z"/><path transform="translate(6.35 -3.52)" d="M713.6 49.8l25.8 6 16.4 5 10 4.5 11.4 7.8 3.3 1.4 3.4-.1 11.3-3.6 10.1-.8 16.4 1.1 25.7 3.6 1-.6-25.7-3.5-16.4-1.2-9.7 .7-11.7 3.5-3.4 .2-3.3-1.4-11.7-7.9-9.7-4.3-16.4-5-25.8-6z"/><path transform="translate(5.94 -3.29)" d="M713.6 49.8l25.8 6 16.7 5.1 9.7 4.4 11.4 7.9 3.3 1.4 3.4-.2 11.3-3.6 9.7-.8 16.8 1.1 25.7 3.6 1-.6-25.7-3.6-16.4-1.1-9.7 .7-11.7 3.6-3.4 .2-3.3-1.4-11.7-8-9.7-4.3-16.4-5-25.8-6z"/><path transform="translate(5.53 -3.07)" d="M713.6 49.8l25.8 6 16.7 5.1 9.7 4.4 11.4 8 3.3 1.4 3.4-.2 11.3-3.7 9.7-.8 16.8 1.1 25.7 3.6 1-.6-25.7-3.5-16.4-1.2-10.1 .8-11.3 3.6-3.4 .2-3.3-1.5-11.4-7.8-10-4.5-16.4-5-25.8-6z"/><path transform="translate(5.12 -2.84)" d="M713.6 49.8l25.8 6 16.7 5.1 9.7 4.4 11.4 8 3.3 1.5 3.4-.2 11.3-3.8 9.7-.8 16.8 1.1 25.7 3.6 1-.6-25.7-3.5-16.8-1.2-9.7 .8-11.3 3.7-3.4 .1-3.3-1.4-11.4-7.9-9.7-4.4-16.7-5.1-25.8-6z"/><path transform="translate(4.71 -2.61)" d="M713.6 49.8l25.8 6 16.7 5.1 9.7 4.4 11.4 8.1 3.3 1.5 3.4-.3 11.3-3.8 9.7-.8 16.8 1.1 25.7 3.6 1-.6-25.7-3.5-16.8-1.2-9.7 .8-11.3 3.7-3.4 .2-3.3-1.4-11.4-7.9-9.7-4.5-16.7-5.1-25.8-6z"/><path transform="translate(4.3 -2.38)" d="M713.6 49.8l25.8 6 16.7 5.1 10 4.6 11.1 7.9 3.3 1.5 3.4-.2 11-3.8 10-.9 16.8 1.1 25.7 3.6 1-.6-25.7-3.5-16.8-1.2-9.7 .8-11.3 3.8-3.4 .2-3.3-1.4-11.4-8-9.7-4.5-16.7-5.1-25.8-6z"/><path transform="translate(3.89 -2.16)" d="M713.6 49.8l26.1 6.1 16.7 5.1 9.7 4.6 11.1 7.9 3.3 1.5 3.4-.2 11-3.9 9.7-.9 16.7 1.1 26.1 3.6 1-.6-25.7-3.5-16.8-1.2-9.7 .9-11.3 3.8-3.4 .2-3.3-1.5-11.4-8-9.7-4.4-16.7-5.2-25.8-6z"/><path transform="translate(3.48 -1.93)" d="M713.6 49.8l26.1 6.1 16.7 5.1 9.7 4.6 11.1 7.9 3.3 1.6 3.4-.3 11-3.9 9.7-.9 16.7 1.1 26.1 3.6 1-.6-25.7-3.5-16.8-1.2-10 .9-11 3.8-3.4 .3-3.3-1.5-11.1-7.9-10-4.6-16.7-5.2-25.8-6z"/><path transform="translate(3.07 -1.7)" d="M713.6 49.8l26.1 6.1 16.7 5.1 9.7 4.6 11.1 8 3.3 1.5 3.4-.3 11-3.9 9.7-.9 16.7 1.1 26.1 3.6 1-.6-25.7-3.5-16.8-1.2-10 .9-11 3.9-3.4 .2-3.3-1.5-11.1-7.9-10-4.6-16.7-5.2-25.8-6z"/><path transform="translate(2.66 -1.48)" d="M713.6 49.8l26.1 6.1 16.7 5.2 9.7 4.5 11.1 8 3.3 1.5 3.4-.2 11-4 9.7-.9 16.7 1.1 26.1 3.6 1-.6-26.1-3.6-16.7-1-9.7 .9-11 3.8-3.4 .3-3.3-1.5-11.1-8-9.7-4.5-16.7-5.2-26.1-6.1z"/><path transform="translate(2.25 -1.25)" d="M713.6 49.8l26.1 6.1 16.7 5.2 9.7 4.5 11.1 8 3.3 1.6 3.4-.3 11-4 9.7-.9 16.7 1.1 26.1 3.6 1-.6-26.1-3.6-16.7-1-9.7 .9-11 3.9-3.4 .2-3.3-1.5-11.1-8-9.7-4.5-16.7-5.2-26.1-6.1z"/><path transform="translate(1.84 -1.02)" d="M713.6 49.8l26.1 6.1 16.7 5.2 9.7 4.5 11.1 8.1 3.3 1.5 3.4-.3 11-4 9.7-.9 16.7 1.1 26.1 3.6 1-.6-26.1-3.6-16.7-1-9.7 .9-11 3.9-3.4 .3-3.3-1.6-11.1-8-9.7-4.5-16.7-5.2-26.1-6.1z"/><path transform="translate(1.43 -0.79)" d="M713.6 49.8l26.1 6.1 16.7 5.1 9.7 4.6 11.1 8.1 3.3 1.5 3.4-.3 6.6-2.7 4.4-1.3 9.7-.9 16.7 1.1 26.1 3.6 1-.6-26.1-3.6-16.7-1-9.7 .9-11 3.9-3.4 .3-3.3-1.5-11.1-8.1-9.7-4.5-16.7-5.2-26.1-6.1z"/><path transform="translate(1.02 -0.57)" d="M713.6 49.8l26.1 6.1 16.7 5.2 9.7 4.5 11.1 8.1 3.3 1.5 3.4-.3 6.6-2.7 4.4-1.3 9.7-.9 16.7 1.1 26.1 3.6 1-.6-26.1-3.6-16.7-1-9.7 .9-11 3.9-3.4 .3-3.3-1.5-11.1-8.1-9.7-4.5-16.7-5.2-26.1-6.1z"/><path transform="translate(0.61 -0.34)" d="M713.8 49.7l26.1 6.1 16.7 5.2 9.7 4.5 11 8.1 3.4 1.5 3.3-.3 6.7-2.7 4.4-1.3 9.7-.9 16.7 1.1 26.1 3.6 .8-.5-26.1-3.6-16.7-1-9.7 .9-4.4 1.2-6.6 2.8-3.4 .2-3.3-1.5-11.1-8.1-9.7-4.5-16.7-5.2-26.1-6.1z"/><path transform="translate(0.2 -0.11)" d="M714.2 49.4l26.1 6.2 16.7 5.1 9.7 4.6 11.1 8.1 3.3 1.5 3.3-.3 6.7-2.7 4.4-1.3 9.7-.9 16.7 1 26.1 3.6 .4-.2-26.1-3.6-16.7-1-9.7 .9-4.4 1.2-6.6 2.8-3.4 .3-3.3-1.6-11.1-8.1-9.7-4.5-16.7-5.2-26.1-6.1z"/></g>
<g text-anchor="middle" font-size="10.2"><text x="713.9" y="143.3">10</text><text x="747.4" y="149.5">5</text><text x="780.8" y="155.7">0</text><text x="812.2" y="161.9">-5</text><text x="845.7" y="168.2">-10</text><text x="860.8" y="164.5">0</text><text x="873.9" y="157.2">1</text><text x="887.0" y="149.9">2</text><text x="900.1" y="142.7">3</text><text x="913.3" y="135.4">4</text><text x="926.4" y="128.1">5</text><text x="939.5" y="120.9">6</text></g>
<g text-anchor="middle" font-size="10.8"><text x="761.5" y="164.8">z</text><text x="921.3" y="147.0">ρ</text><text x="688.0" y="35.5" text-anchor="start">f(z,ρ)</text></g>
<g text-anchor="end" font-size="10.2"><text x="707.9" y="107.3">0</text><text x="707.9" y="95.7">0.2</text><text x="707.9" y="84.1">0.4</text><text x="707.9" y="72.6">0.6</text><text x="707.9" y="61.0">0.8</text><text x="707.9" y="49.5">1</text></g>
<!-- d -->
<g fill="none" stroke="#000" stroke-width=".55">
<path d="M62.7 297.1L230.3 328.7L327.2 274.7L159.6 243.1Z"/>
<path d="M90.6 302.4L92.1 301.5M187.5 248.4L186.0 249.2M118.6 307.6L120.1 306.8M215.5 253.6L214.0 254.5M146.5 312.9L148.0 312.1M243.4 258.9L241.9 259.7M174.4 318.2L175.9 317.3M271.3 264.2L269.8 265.0M202.4 323.4L203.9 322.6M299.3 269.4L297.8 270.3M262.6 310.7L259.3 310.1M95.0 279.1L98.3 279.7M294.9 292.7L291.6 292.1M127.3 261.1L130.6 261.7"/>
</g>
<g fill="none" stroke-width=".42">
<path d="M121.1 308.1l1.9-1.4-.2-.4-1.2 .2-2.8 1.2M174.2 318.1l1.9-1.4-.2-.4-1.2 .2-2.8 1.2" stroke="#00c000" stroke-dasharray="2 1"/>
<path d="M126.5 309.1l4.5-2.7 3.8-2.9 1.9-2.3 .2-1-.3-.6-1-.4-1.8-.1-6.1 1.3-7.2 2.8-7.1 3.5M179.6 319.1l4.5-2.7 3.7-2.9 1.9-2.3 .2-.9-.2-.6-1-.5-1.8-.1-6.1 1.3-7.2 2.8-7.1 3.5" stroke="#0000ff" stroke-dasharray="1 2"/>
<path d="M130.1 309.8l7.5-4.6 5.5-4.4 1.9-2 .9-1.7 .2-1.2-.4-.8-1.6-.7-2.6 0-3.8 .5-5.2 1.3-11.1 4.1-11.5 5.7M183.1 319.8l7.5-4.6 5.5-4.4 1.9-2 1-1.7 .2-1.1-.5-.9-1.5-.6-2.6-.1-3.8 .5-5.2 1.3-11.1 4.1-11.6 5.7" stroke="#ff00ff" stroke-dasharray=".7 .5"/>
</g>
<g fill="none" stroke="#000" stroke-width=".6">
<path d="M62.5 297.1L62.5 187.7M62.5 248.5L66.0 248.5M62.5 236.5L66.0 236.5M62.5 224.5L66.0 224.5M62.5 212.5L66.0 212.5M62.5 199.5L66.0 199.5M62.5 187.5L66.0 187.5"/>
</g>
<linearGradient id="Pd" gradientUnits="userSpaceOnUse" x1="62.70" y1="261.00" x2="76.04" y2="190.25"><stop offset="0" stop-color="#ecdce6"/><stop offset="0.03" stop-color="#e2cdd9"/><stop offset="0.06" stop-color="#d4b9c6"/><stop offset="0.1" stop-color="#c3a0ac"/><stop offset="0.15" stop-color="#aa8087"/><stop offset="0.2" stop-color="#91625f"/><stop offset="0.25" stop-color="#7a463a"/><stop offset="0.29" stop-color="#642816"/><stop offset="0.334" stop-color="#46050a"/><stop offset="0.388" stop-color="#370050"/><stop offset="0.448" stop-color="#32008c"/><stop offset="0.51" stop-color="#3200be"/><stop offset="0.57" stop-color="#2d00e6"/><stop offset="0.645" stop-color="#1e00ff"/><stop offset="0.72" stop-color="#0058ff"/><stop offset="0.8" stop-color="#0096ff"/><stop offset="0.86" stop-color="#00cdff"/><stop offset="0.9" stop-color="#00ebff"/><stop offset="0.93" stop-color="#00ffff"/><stop offset="1" stop-color="#00ffff"/></linearGradient>
<g stroke-width=".6" stroke-linejoin="round" fill="url(#Pd)" stroke="url(#Pd)"><path d="M142.7 216.3l104.8 19.4 62.8 12.2 16.9-9.4-167.6-31.6z" fill="#ebdae5" stroke="#ebdae5"/><path d="M126.6 225.3l60.3 10.8 107.3 20.8 16.8-9.4-104.3-20-63.3-11.6z" fill="#eadae4" stroke="#eadae4"/><path d="M118.5 229.8l56.1 9.9 52.8 9.9 58.7 11.8 8.8-4.9-107.3-20.7-60.3-10.9z" fill="#ead9e3" stroke="#ead9e3"/><path transform="translate(56.52 -31.5)" d="M60 262.4l56.1 9.9 52.8 9.9 58.7 11.8 2.7-1.5-59.1-11.8-52.3-9.9-56.2-9.9z"/><path transform="translate(54.51 -30.38)" d="M60 262.4l58.2 10.2 52.8 9.9 56.6 11.5 2.7-1.5-58.7-11.8-52.8-10-56.1-9.8z"/><path transform="translate(52.49 -29.25)" d="M60 262.4l56.5 9.7 27.3 5.5 25.9 4.6 57.9 11.8 2.7-1.5-56.6-11.5-52.8-9.9-58.2-10.2z"/><path transform="translate(50.47 -28.12)" d="M60 262.4l56.5 9.6 27.3 5.6 25.9 4.4 57.9 12 2.7-1.5-56.6-11.6-27.2-4.8-26-5.2-57.8-10z"/><path transform="translate(48.45 -27)" d="M60 262.4l33.1 5.9 24.3 3.6 26.4 5.7 27.2 4.4 23.5 5.4 33.1 6.6 2.7-1.5-56.6-11.7-27.2-4.7-26-5.4-57.8-9.8z"/><path transform="translate(46.43 -25.88)" d="M60 262.4l36.4 6.4 21 2.8 26.4 6 26.8 4.1 20.5 5 36.5 7.3 2.7-1.5-32.3-6.4-24.3-5.5-27.2-4.5-26.4-5.6-25.6-3.9-31.8-5.7z"/><path transform="translate(44.41 -24.75)" d="M60 262.4l39.3 6.9 18.1 1.9 12.9 3.6 13.5 2.7 13.4 2.3 13.4 1.4 17.6 4.8 39.4 8 2.7-1.5-35.2-7.1-21.8-5.2-26.8-4.2-26.4-5.8-22.2-3.1-35.2-6.2z"/><path transform="translate(42.39 -23.62)" d="M60 262.4l40.6 7 16.8 1.2 10.9 3.5 7.1 1.7 20.5 3.8 14.7 1 16.3 5.1 40.7 8.3 2.7-1.5-38.5-7.8-18.5-4.8-13.4-1.6-13.4-2.3-13.4-2.8-13-3.4-18.8-2.2-38.6-6.7z"/><path transform="translate(40.37 -22.5)" d="M60 262.4l41.4 7.1 5.1 .4 7.5-.5 3.4 .3 10.9 4.2 6.7 1.8 21.3 3.8 13.9 .1 10.9 4.3 5 1.5 41.5 8.6 2.7-1.5-40.2-8.2-16.8-5-14.6-1.2-20.6-3.8-18-5-17.2-1.5-40.2-6.9z"/><path transform="translate(38.36 -21.38)" d="M60 262.4l40.6 6.9 5.4 .4 5.5-.8 2.7-.6-5.4 .1-6.7-.7-39.4-6.8zM114.2 268.3l3.4-.1-2.8 .2-3.3 .5zM114.8 268.4l4.6 .8 10.5 5.1 8.4 2.1 18 3 4.2 .1 4.6-.8 2.8-.5-8.8-.2-16.4-2.8-10-2.2-10.5-3.9-4.6-.9zM167.9 278.2l2.5 0-2.8 .2-2.5 .3zM167.6 278.4l4.6 .7 8.4 4.4 5.9 2 41.1 8.5 2.7-1.5-40.2-8.3-6.3-1.7-8.8-3.5-4.6-.8z"/><path transform="translate(36.34 -20.25)" d="M60 262.4l39.3 6.7 5.5 .4 4.2-.8 2.7-.7-4.6 .2-6.3-.7-38.1-6.6zM111.7 268l5.5-.7 2.9 .2-2.7-.5-3 0-5.4 1.7zM117.4 267l2.9 1.2 7.5 5 5.5 2 20.5 3.9 4.2 .2 3.8-.6 2.7-.7-8.4-.4-19.7-3.7-5.8-1.8-7.6-3.7-2.9-.9zM164.5 278l5.5-.7 2.9 .1-2.8-.5-2.9 .1-5.4 1.7zM170.1 276.9l3.4 1.4 7.5 5.1 4.7 1.8 15 3.5 26.9 5.3 2.7-1.5-41.5-8.6-5-1.6-7.6-3.8-3.3-1.1z"/><path transform="translate(34.32 -19.12)" d="M60 262.4l38.1 6.5 5.4 .4 3.8-.7 2.7-.8-4.1 .2-5.9-.7-37.3-6.4zM110 267.8l7.2-1.8 3.7 .3-2.7-1.1-1.7-.3-2.1 .3-7.1 3.4zM118.2 265.2l2.5 1.5 6.7 5.8 5 2.4 19.7 3.9 4.6 .4 3.4-.6 2.7-.9-3.3 .2-5-.6-19.3-3.8-5-1.9-9.3-5.3zM162.8 277.7l7.6-1.7 3.8 .3-2.8-1-1.7-.4-2.1 .2-7.5 3.5zM171.4 275.3l2.5 1.6 6.7 5.8 5.1 2.4 14.2 3.4 27.7 5.5 2.7-1.5-41.9-8.8-5-1.9-9.2-5.5z"/><path transform="translate(32.3 -18)" d="M60 262.4l37.2 6.4 5.1 .4 3.7-.7 2.8-.9-3.8 .2-6.3-.7-36-6.2zM108.8 267.6l8.8-3.4 2.1-.1 2.1 .7-2.8-1.6-2.1-.8-2.1 .3-8.8 5.8zM119 263.2l8.4 8.6 4.6 2.8 6.7 1.8 12.6 2.3 4.6 .3 3.4-.6 2.7-.9-3.3 .2-5.1-.6-18.8-3.9-5.1-2.4-7.9-6zM162 277.5l8.4-3.2 2.1-.2 2.1 .6-2.8-1.7-2.1-.6-2.1 .4-8.3 5.6zM171.8 273l2.1 1.8 6.7 7.3 5.1 2.9 12.9 3.2 29 5.8 2.7-1.5-27.7-5.5-14.2-3.4-5-2.3-8.8-6.6z"/><path transform="translate(30.28 -16.88)" d="M60 262.4l36 6.2 5.4 .5 3.4-.6 2.7-1-3.7 .2-5.9-.7-35.2-6.1zM107.5 267.5l3.4-1.2 6.7-4.2 2.5-.2 2.1 1-2.7-2.3-2.1-1.2-2.6 .5-6.7 6.6-3.3 2zM119.5 260.6l7.9 10.5 4.6 3.3 5.9 1.8 12.1 2.2 4.6 .5 3.4-.6 2.7-1-3.3 .2-5-.6-11.8-2.2-5.8-1.6-5.1-2.9-7.5-7.3zM160.7 277.3l3.4-1.2 6.7-4.1 2.1-.2 2.1 .9-2.8-2.3-2-1-2.1 .4-7.2 6.8-2.9 1.7zM172.2 270.4l8.4 10.9 2.5 2.2 2.6 1.4 11.7 3 30.2 6.1 2.7-1.5-28.5-5.7-13.4-3.3-5-2.7-8.4-8.1z"/><path transform="translate(28.26 -15.75)" d="M60 262.4l35.6 6.1 5 .5 3.4-.6 2.7-1.1-3.4 .3-6.2-.8-34.4-5.9zM106.7 267.3l3.8-1.7 7.1-6.2 2.5-.4 2.1 1.2-2.7-3-2.1-1.4-1.3 0-1.3 .7-7.1 9.2-3.7 2.7zM119.5 257.2l7.5 12.4 2.1 2.5 2.5 1.9 5 1.8 11.3 2.3 5.9 .6 3.4-.5 2.7-1-3.8 .1-5.8-.8-10.9-2.1-5-1.6-4.7-3.4-7.5-9.2zM159.9 277.2l3.8-1.8 7.1-6.1 2.1-.3 2.5 1.3-2.7-2.9-2.5-1.7-2.1 .7-2.1 2.1-5.1 6.9-3.7 2.8zM172.7 267.4l7.9 13 2.5 2.7 2.6 1.6 10.9 3 31 6.3 2.7-1.5-29.7-6-12.2-3.1-2.5-1.3-2.5-2-8-9.8z"/><path transform="translate(26.24 -14.62)" d="M60 262.4l35.6 6.1 5 .3 2.9-.6 2.8-1.1-3.4 .3-5.4-.5-34.8-6zM106.3 267.1l2.1-.9 2.1-1.6 7.1-8.4 2.5-.6 2.1 1.4-2.7-3.7-2.1-1.6-1.3 .1-1.3 .8-7.5 12.3-1.7 1.9-2.1 1.4zM119.5 253.3l7.9 15.7 2.1 2.9 2.1 1.8 4.2 1.8 9.6 2.1 7.2 1 3.7-.5 2.8-1.1-3.8 .2-7.5-1.2-9.3-1.9-4.1-1.6-2.6-1.8-2.1-2.3-7.5-11.4zM159.1 277l2.1-.7 2.1-1.6 7.5-8.6 2.1-.5 2.5 1.5-2.7-3.6-1.3-1.3-1.2-.6-2.1 .9-2.1 2.7-5.5 9.4-2.1 2.3-2.1 1.2zM172.7 263.5l7.9 15.9 2.5 3.2 2.6 1.9 3.3 1.4 6.3 1.5 32.3 6.6 2.7-1.5-30.6-6.2-11.3-3.1-2.5-1.5-2.5-2.5-8-12.1z"/><path transform="translate(24.22 -13.5)" d="M60 262.4l34.7 5.9 5.1 .5 2.9-.6 2.7-1.1-3.3 .2-5.5-.6-33.9-5.8zM105.4 267.1l2.6-1.2 2.1-2 7.5-11.3 1.3-.9 1.2 0 2.1 1.5-2.7-4.2-2.1-1.9-1.3 .2-1.3 1.1-2 3.5-5.5 11.7-2.1 2.8-2.5 1.8zM119.5 249l7.9 18.8 2.1 3.4 2.1 2.2 4.2 2.1 8 1.8 7.9 1.2 4.2-.5 2.8-1.1-4.2 .1-8-1.2-8-1.8-4.1-1.7-2.6-2.2-2.1-2.8-7.5-14.1zM158.7 276.9l2.5-1.3 2.1-2 5.4-8.6 2.1-2.6 2.1-.8 2.5 1.9-2.7-4.2-1.3-1.6-1.2-.6-2.1 1.1-2.1 3.4-5.9 12.3-2.1 2.7-2.1 1.4zM172.7 259.3l7.9 18.9 2.5 3.9 2.6 2.2 3.3 1.5 5.5 1.4 33.1 6.8 2.7-1.5-31.8-6.5-6.7-1.6-3.4-1.4-2.5-1.7-2.5-3-8-14.8z"/><path transform="translate(22.21 -12.38)" d="M60 262.4l34.3 5.9 5 .4 3-.6 2.7-1.2-3.3 .4-5.5-.6-33.5-5.8zM105 266.9l2.5-1.3 2.1-2.4 8-14.8 1.2-1 1.3-.1 2.1 1.8-2.8-4.7-2-2.2-1.3 .2-1.3 1.4-2.1 4.2-5.8 14.9-2.1 3.3-2.5 1.9zM119.4 244.4l2.1 4.8 5.9 17.2 2.1 4.1 2.1 2.6 3.8 2.2 6.3 1.6 9.6 1.5 4.2-.6 2.7-1.1-4.2 .3-9.2-1.6-6.7-1.5-3.8-1.9-2-2.1-2.1-3.2-8-17.6zM158.2 276.7l2.5-1.4 2.1-2.4 5.9-11.5 2.1-3.2 2.1-1 1.3 .6 1.2 1.5-2.7-4.6-1.3-1.8-1.3-.7-.8 .2-1.2 1.1-2.1 4.1-5.9 14.9-2.1 3.3-2.5 2zM172.7 254.7l7.9 22.1 2.5 4.7 2.6 2.6 2.9 1.5 5.4 1.5 33.6 6.9 2.7-1.5-32.7-6.7-5.9-1.5-3.3-1.4-2.5-2.1-2.5-3.7-8-17.8z"/><path transform="translate(20.19 -11.25)" d="M60 262.4l34.3 5.9 4.6 .3 3-.6 2.7-1.2-2.9 .4-5.5-.6-33.5-5.7zM104.6 266.8l2.5-1.5 2.5-3.4 5.9-14 2.1-4 1.2-1.2 1.3-.2 2.1 2-2.7-4.9-2.1-2.4-1.3 .2-1.3 1.6-2.1 4.8-5.8 17.7-2.5 4.4-2.5 2.1zM119.5 239.6l2 5.4 5.9 19.9 2.1 4.8 2.1 3 3.4 2.3 5 1.5 10.5 1.8 2.5 0 2.1-.6 2.7-1.1-4.6 .2-10.1-1.7-5.4-1.5-3.4-2-2-2.4-2.1-3.8-5.9-16.3-2.1-4.6zM157.8 276.6l2.5-1.6 2.5-3.5 5.9-14 2.1-3.8 2.1-1.3 2.1 1.7-2.8-5-1.2-1.6-.9-.4-.8 .2-1.2 1.4-2.1 4.7-6.3 18.6-2.1 3.6-2.5 2.1zM172.2 249.1l2.1 5.1 6.7 22.3 2.1 4.3 2.6 3 2.9 1.7 4.6 1.4 34.4 7.1 2.7-1.5-33.5-6.9-5.5-1.5-2.9-1.5-2.5-2.4-2.5-4.4-6.3-17.3-2.1-4.4z"/><path transform="translate(18.17 -10.12)" d="M60 262.4l33.9 5.8 4.6 .4 2.9-.6 2.8-1.3-3 .4-5.4-.5-33.1-5.7zM104.2 266.7l2.5-1.6 2.5-3.7 6.3-17.6 2.1-4.6 1.2-1.5 .9-.3 .8 .3 1.3 1.3-2.8-5.1-1.2-1.5-.9-.3-.8 .4-1.3 1.7-2.1 5.5-6.2 21.4-2.6 4.7-2.5 2.2zM119 233.9l2.5 6.9 5.9 22.5 2.1 5.5 2.1 3.5 2.9 2.4 4.6 1.6 10.9 1.9 2.6 0 2-.5 2.8-1.2-4.6 .2-10.9-1.9-4.6-1.5-3-2-2-2.9-2.1-4.5-5.9-18.9-2.5-6zM157.4 276.5l2.5-1.7 2.5-3.9 6.3-17.5 2.1-4.5 1.3-1.3 .8-.2 .8 .4 1.3 1.5-2.8-5.1-1.2-1.7-.8-.4-.9 .3-1.2 1.5-2.1 5.3-6.3 21.4-2.5 4.9-2.6 2.2zM172.2 244.2l2.6 7.2 6.2 23.7 2.1 5 2.6 3.4 2.9 1.9 4.6 1.5 34.4 7.1 2.7-1.5-33.9-7-5.1-1.5-2.9-1.6-2.5-2.9-2.5-5.1-6.3-20.2-2.1-4.9z"/><path transform="translate(16.15 -9)" d="M60 262.4l33.5 5.7 4.6 .4 2.9-.6 2.8-1.2-3 .4-5.4-.6-32.7-5.6zM103.8 266.7l2.9-2.2 2.5-4.5 6.3-20.4 2.1-5.2 1.2-1.7 .9-.3 .8 .2 1.3 1.5-2.8-4.9-1.2-1.6-.9-.3-.8 .4-1.3 1.9-2.1 6-6.2 24.1-2.6 5.5-2.9 2.7zM119 229.2l2.5 7.5 6.3 26.5 1.7 4.8 2.1 3.9 2.5 2.4 4.2 1.7 11.3 2.1 2.5 .1 2.1-.5 2.8-1.3-4.6 .3-10.9-2.1-4.2-1.4-3-2.3-2-3.3-2.1-5.3-5.9-21.5-2.5-6.7zM157 276.4l2.9-2.2 2.5-4.6 8-24.7 2.1-2.5 .8 .1 1.3 1.2-2.8-4.9-1.2-1.4-.9 0-2.1 2.8-2.1 6.4-6.2 23.8-2.6 5-2.5 2.3zM171.8 238.8l2.5 6.9 6.7 28.1 2.6 6.4 2.5 3.5 2.9 1.9 4.6 1.4 34 7 2.7-1.5-34.4-7.1-4.6-1.4-2.9-1.9-2.5-3.3-2.1-4.7-6.7-24.2-2.5-6.2z"/><path transform="translate(14.13 -7.88)" d="M60 262.4l33.1 5.7 4.6 .4 2.9-.5 2.7-1.4-2.9 .4-5.4-.6-32.3-5.5zM103.3 266.6l3-2.1 2.5-4.7 2.1-6.4 4.6-17.9 2.1-5.8 1.2-1.8 .9-.4 1.7 1.2-2.8-4.5-1.2-1.2-.9 .1-2.1 3.3-8.4 33.3-2.5 5.6-2.9 2.7zM118.6 224.2l2.9 8.7 6.3 28.9 1.7 5.3 2.1 4.4 2.5 2.7 3.8 1.7 11.3 2.2 2.5 .1 2.1-.5 2.8-1.3-4.7 .2-10.8-2.1-4.2-1.6-2.5-2.4-2.1-3.8-1.7-4.5-6.3-25.6-2.9-7.9zM156.6 276.4l2.9-2.3 2.5-4.8 8.4-29 2.1-2.8 .8 .1 1.3 1.3-2.8-4.4-1.2-1.5-.9 0-2.1 3-2.1 6.9-6.2 26.2-2.6 5.8-1.2 1.6-1.7 1.2zM171.8 234.5l2.5 7.3 7.2 32.1 2.1 5.7 2.5 3.9 2.9 2 4.2 1.4 34.4 7.1 2.7-1.5-33.9-7-4.6-1.4-3-1.9-2.5-3.3-2.5-6.2-6.7-27-2.5-6.8z"/><path transform="translate(12.11 -6.75)" d="M60 262.4l33.1 5.6 4.6 .4 2.9-.6 2.7-1.3-2.9 .5-5-.5-32.7-5.6zM103.3 266.5l3-2.5 2.5-5.4 8.4-32.3 2.1-3.3 .8 0 .8 .6-2.7-3.8-.8-.6-.9 .1-2.1 3.4-2.1 7.5-6.3 28.4-2.5 6.2-1.2 1.7-1.7 1.3zM118.2 219.8l1.7 3.5 1.7 6.1 6.7 32.8 1.6 5.3 1.7 3.6 2.5 3 3.8 1.8 11.3 2.1 2.5 .1 2.1-.6 2.8-1.3-4.7 .3-11.3-2.1-3.7-1.7-2.5-2.6-2.1-4.2-1.7-5.1-6.7-29.8-1.7-5.2-1.3-2.2zM156.6 276.2l2.9-2.6 2.5-5.6 6.3-25.4 2.1-6.7 2.1-2.9 .8 0 .9 .8-2.8-3.8-.8-.7-.9-.1-.8 .7-1.3 2.4-2.1 7.2-6.2 28.5-2.6 6.4-1.2 1.8-1.7 1.3zM171.4 230l1.3 2.6 1.6 5.7 7.2 34.5 2.1 6.3 2.5 4.2 2.9 2.2 4.2 1.3 34.4 7.2 2.7-1.5-34.4-7.2-4.1-1.3-3-2-2.5-3.7-2.1-5.5-7.1-31.2-1.7-5.4-1.2-2.4z"/><path transform="translate(10.09 -5.62)" d="M60 262.4l33.5 5.7 4.6 .3 2.5-.7 2.7-1.4-2.9 .6-4.6-.4-33.1-5.6zM103.3 266.3l1.7-1.2 1.3-1.6 2.5-6 6.3-27.7 2.1-7.4 2.1-3.4 .8-.1 .8 .7-2.7-2.8-1.3-.7-.8 .4-1.7 3.2-2.1 7.7-6.3 30.3-2.5 6.7-1.2 1.9-1.7 1.4zM118.2 216.8l1.7 3.5 1.7 6.3 6.7 34.6 1.6 5.7 1.7 3.9 2.5 3.2 3.8 1.8 10.9 2.2 2.5 .1 2.1-.5 2.7-1.4-4.6 .3-10.9-2.2-3.7-1.7-2.5-2.9-1.7-3.5-1.7-5.2-7.1-33.7-1.7-5.4-1.3-2.3zM156.1 276.2l2.6-1.9 2.5-4.9 2.5-8.8 5.8-26.2 2.1-4.7 1.3-.8 .8 .4-2.7-2.8-1.3-.3-.8 .7-1.7 3.5-8.4 38.1-2.5 6.2-1.2 1.7-1.7 1.2zM171 226.5l1.7 3 1.6 5.9 7.6 38.1 2.1 6.1 2.1 3.5 2.9 2.3 4.2 1.4 34.4 7.2 2.7-1.5-34.4-7.2-4.1-1.4-3-2.1-2.5-4.1-2.1-6-7.1-33.7-1.7-5.7-1.7-3z"/><path transform="translate(8.07 -4.5)" d="M60 262.4l32.6 5.6 4.7 .4 2.9-.6 2.7-1.4-2.9 .5-4.6-.4-32.7-5.6zM102.9 266.4l2.5-2.1 2.6-5.2 2.5-9.4 5.8-27.9 2.1-5.3 .9-.8 1.2 .2-2.7-1.8-1.3-.1-.8 .8-2.1 5.2-6.3 31.6-2.1 8.2-2.5 5.7-2.5 2.3zM117.8 214.1l1.7 2.7 1.2 4 7.1 37.8 2.1 7.8 2.1 4.9 2.5 2.9 3.8 1.8 10.5 2 2.5 0 2.1-.5 2.7-1.4-2.1 .5-2.5-.1-10.9-2.2-3.7-1.8-2.5-3.1-2.1-5-1.7-6.1-7.1-35.8-1.7-4.9-1.3-1.7zM156.1 276.1l2.6-2.2 2.5-5.3 2.1-7.7 6.3-29.7 2-4.9 .9-.6 .8 0-2.7-1.7-1.3 .2-.8 1-2.1 5.8-5.9 29.8-2.1 8.4-2.5 5.9-2.5 2.4zM170.6 224l1.2 1.4 .9 1.8 1.6 5.9 7.6 39.7 2.1 6.4 2.1 3.7 2.5 2.2 4.2 1.6 34.8 7.3 2.7-1.5-34.4-7.2-4.1-1.4-3-2.3-2.1-3.4-2.1-6-7.5-37.4-2.1-6.8-1.7-2.3z"/><path transform="translate(6.06 -3.38)" d="M60 262.4l32.6 5.6 4.6 .4 3-.6 2.7-1.5-2.9 .6-4.6-.4-32.7-5.6zM102.9 266.3l2.5-2.2 2.5-5.6 2.6-10 5.8-29.3 1.7-4.6 .8-1.1 1.3-.4-2.7-.6-1.3 .3-.8 1.1-2.1 6.1-5.5 28.8-2.5 10.6-2.5 5.9-2.5 2.5zM117.4 212.5l1.6 1.8 1.7 4.9 7.1 38.7 2.1 8.2 2.1 5 2.5 3.1 3.8 1.7 10.5 2.1 2.5 0 2.1-.6 2.7-1.4-2.1 .5-2.5-.1-10.5-2-3.7-1.7-2.5-2.9-2.1-4.7-2.1-7.8-7.1-37.3-1.7-4.9-1.7-2zM156.1 276l2.5-2.3 2.6-5.8 2.1-8.2 5.8-29.5 1.7-5 .8-1.4 1.3-.7-2.8-.6-1.2 .6-.8 1.3-1.7 5-5.9 30.7-2.1 8.7-2.5 6.1-2.5 2.5zM170.1 222.5l1.3 .8 .8 1.4 1.7 5.1 7.6 40.8 2.1 7.3 2.5 4.9 2.5 2.3 4.2 1.6 34.8 7.3 2.7-1.5-34.8-7.3-4.2-1.6-2.5-2.1-2.5-4.7-2.1-6.9-8-40.9-1.6-4.4-1.7-1.5z"/><path transform="translate(4.04 -2.25)" d="M60 262.4l33.1 5.6 4.6 .4 2.5-.7 2.7-1.5-2.9 .6-4.6-.4-32.7-5.5zM102.9 266.2l2.5-2.4 2.5-5.8 2.6-10.5 5.4-28.5 1.7-5.3 .8-1.5 1.3-.9-2.8 .5-1.2 .7-.9 1.4-1.6 5.3-5.9 31.3-2.1 8.6-2.5 6.1-2.5 2.5zM116.9 211.8l1.3 .6 .8 1.2 1.7 4.7 7.1 39.3 2.1 8.3 2.1 5.1 2.5 3.1 3.8 1.8 10.5 2.1 2.5 0 2.1-.6 2.7-1.5-2.1 .6-2.5-.1-10.4-2-3.8-1.8-2.5-3-2.1-4.9-2.1-8.1-7.1-38.5-1.7-4.8-.9-1.3-1.2-.7zM156.1 275.9l2.5-2.5 2.6-6 2.1-8.6 5.8-30.4 1.7-5 1.7-2-2.8 .4-1.2 1.1-.9 1.7-1.6 5.7-5.5 29.3-2.1 8.9-2.5 6.3-2.5 2.6zM169.7 221.8l1.3 .4 .8 .9 1.7 4.3 2.1 9.6 5.9 33.3 2.5 8.5 2.5 4.5 2.5 2 4.2 1.5 34.4 7.2 2.7-1.5-34.8-7.3-4.2-1.6-2.5-2.3-2.5-4.8-2.1-7.3-8-42-1.6-4.4-.9-1.1-1.2-.3z"/><path transform="translate(2.02 -1.12)" d="M60.7 262l33.1 5.6 4.6 .3 2.5-.6 2-1.1-2.9 .6-4.6-.4-32.7-5.5zM102.9 266.2l2.5-2.5 2.6-6 2-8.7 5.9-31.2 1.7-5.2 1.7-2.1-2.1 .9-1.6 2-1.7 5.2-5.9 31.4-2.1 8.7-2.5 6.1-2.5 2.5zM117.2 211.4l1.3 .1 .8 .8 2.1 5.5 7.2 39.3 2.1 8.4 2 5.1 2.6 3.1 3.7 1.8 10.5 2 2.5 .1 2.1-.6 2-1.1-2.1 .6-2.5-.1-10.4-2-3.8-1.8-2.5-3.1-2.1-5.1-2.1-8.3-7.1-39.1-2.1-5.5-.9-.8-1.2-.2zM156.1 275.9l2.5-2.6 2.6-6.3 2.1-8.8 5.4-29.2 1.7-5.8 1.7-2.6-2.1 .9-1.6 2.5-1.7 5.7-5.5 29.5-2.1 8.9-2.5 6.3-2.5 2.6zM170 221.5l1.3-.1 .8 .6 2.1 4.8 2.1 9.6 5.9 33.4 2.5 8.6 2.5 4.5 2.5 2 4.2 1.5 34.4 7.2 2-1.1-34.4-7.2-4.1-1.5-2.6-2-2.5-4.5-2.5-8.5-5.9-33.2-2.1-9.5-2-4.9-.9-.7-1.2 .1z"/></g>
<g text-anchor="middle" font-size="12"><text x="62.2" y="307.9">12</text><text x="90.1" y="313.2">8</text><text x="118.1" y="318.4">4</text><text x="146.0" y="323.7">0</text><text x="171.9" y="329.0">-4</text><text x="199.9" y="334.2">-8</text><text x="227.8" y="339.5">-12</text><text x="245.3" y="334.2">0</text><text x="277.6" y="316.2">2</text><text x="309.9" y="298.2">4</text><text x="342.2" y="280.2">6</text></g>
<g text-anchor="middle" font-size="14.1"><text x="122.0" y="335.5">z</text><text x="322.0" y="312.5">ρ</text><text x="5.5" y="201.3" text-anchor="start">q(z,ρ)</text></g>
<g text-anchor="end" font-size="12"><text x="56.2" y="251.6">3</text><text x="56.2" y="239.4">6</text><text x="56.2" y="227.2">9</text><text x="56.2" y="215.0">12</text><text x="56.2" y="202.7">15</text><text x="56.2" y="190.5">18</text></g>
<!-- e -->
<g fill="none" stroke="#000" stroke-width=".55">
<path d="M414.1 303.1L560.0 329.7L644.1 282.9L498.2 256.3Z"/>
<path d="M438.4 307.5L439.9 306.7M522.5 260.7L521.0 261.6M462.7 312.0L464.2 311.1M546.8 265.2L545.3 266.0M487.1 316.4L488.5 315.6M571.2 269.6L569.7 270.4M511.4 320.8L512.9 320.0M595.5 274.0L594.0 274.9M535.7 325.3L537.2 324.4M619.8 278.5L618.3 279.3M588.0 314.1L584.7 313.5M442.1 287.5L445.5 288.1M616.1 298.5L612.7 297.9M470.2 271.9L473.5 272.5"/>
</g>
<g fill="none" stroke-width=".42">
<path d="M474.7 314.1l7.2-4.3 5.3-4.2 2.5-3.2 .3-1.1-.5-1.1-2-.7-2.4 0-7.8 1.7-11.3 4.1-10.7 5.3" stroke="#00c000" stroke-dasharray="2 1"/>
<path d="M487 316.4l41-23.3 40.7-24" stroke="#0000ff" stroke-dasharray="1 2"/>
<path d="M499.4 318.7l11.4-5.7 11.8-4.6 4.6-1.3 4.7-.8 2.9 .1 1.2 .7 .2 1.2-.6 1.3-3.4 3.6-5.5 4.2-7.9 4.8" stroke="#ff00ff" stroke-dasharray=".7 .5"/>
</g>
<g fill="none" stroke="#000" stroke-width=".6">
<path d="M414.5 303.1L414.5 208.3M414.5 265.5L418.0 265.5M414.5 252.5L418.0 252.5M414.5 239.5L418.0 239.5M414.5 226.5L418.0 226.5M414.5 214.5L418.0 214.5"/>
</g>
<linearGradient id="Pe" gradientUnits="userSpaceOnUse" x1="414.10" y1="270.90" x2="424.70" y2="212.79"><stop offset="0" stop-color="#ecdce6"/><stop offset="0.029" stop-color="#e2cdd9"/><stop offset="0.057" stop-color="#d4b9c6"/><stop offset="0.095" stop-color="#c3a0ac"/><stop offset="0.143" stop-color="#aa8087"/><stop offset="0.191" stop-color="#91625f"/><stop offset="0.238" stop-color="#7a463a"/><stop offset="0.276" stop-color="#642816"/><stop offset="0.318" stop-color="#46050a"/><stop offset="0.37" stop-color="#370050"/><stop offset="0.427" stop-color="#32008c"/><stop offset="0.486" stop-color="#3200be"/><stop offset="0.537" stop-color="#3000cb"/><stop offset="0.577" stop-color="#2d00e6"/><stop offset="0.65" stop-color="#1e00ff"/><stop offset="0.724" stop-color="#0058ff"/><stop offset="0.803" stop-color="#0096ff"/><stop offset="0.862" stop-color="#00cdff"/><stop offset="0.902" stop-color="#00ebff"/><stop offset="0.931" stop-color="#00ffff"/><stop offset="1" stop-color="#00ffff"/></linearGradient>
<g stroke-width=".4" stroke-linejoin="round" fill="url(#Pe)" stroke="url(#Pe)"><path d="M483.6 201l145.9 26.6 14.6-8.2-145.9-26.6z" fill="#3000cb" stroke="#3000cb"/><path d="M469.5 208.8l31.4 5.6 21.2 3.3 25.9 5.5 16.7 4.1 19 2.4 31.7 5.7 14.7-8.2-145.9-26.6z" fill="#3000cb" stroke="#3000cb"/><path transform="translate(55.63 -30.96)" d="M413 240.2l31.4 5.7 20.8 3.1 26.3 5.7 16.7 4.2 19 2.2 31.7 5.7 1.5-.8-31.7-5.7-19-2.4-16.7-4.1-25.9-5.4-52.6-9z"/><path transform="translate(54.75 -30.47)" d="M413 240.2l31.4 5.7 20.8 3 26.6 5.9 16.4 4.3 19 2 31.7 5.7 1.5-.8-31.7-5.7-19-2.3-16.7-4.2-25.9-5.5-21.2-3.3-31.4-5.6z"/><path transform="translate(53.88 -29.98)" d="M413 240.2l31.4 5.7 20.8 2.9 26.6 6 16.4 4.4 19 1.9 31.7 5.7 1.5-.8-31.7-5.7-19-2.2-16.7-4.3-26.3-5.7-20.8-3.1-31.4-5.6z"/><path transform="translate(53 -29.49)" d="M413 240.2l31.4 5.6 20.8 2.9 26.6 6.1 16.4 4.6 19 1.7 31.7 5.7 1.5-.8-31.7-5.7-19-2-16.4-4.3-26.6-6-20.8-3-31.4-5.6z"/><path transform="translate(52.12 -29.01)" d="M413 240.2l31.4 5.6 20.8 2.8 26.6 6.3 16.4 4.7 19 1.6 31.7 5.6 1.5-.8-31.7-5.7-19-1.9-16.4-4.4-26.6-6.1-20.8-2.9-31.4-5.6z"/><path transform="translate(51.25 -28.52)" d="M413 240.2l31.4 5.6 20.8 2.6 26.6 6.5 16.4 4.9 19 1.4 31.7 5.6 1.5-.8-31.7-5.7-19-1.7-16.4-4.6-26.6-6.2-20.8-2.8-31.4-5.6z"/><path transform="translate(50.37 -28.03)" d="M413 240.2l31.4 5.6 20.8 2.5 26.6 6.6 16.4 5.1 19 1.2 31.7 5.6 1.5-.8-31.7-5.7-19-1.5-16.4-4.8-26.6-6.3-20.8-2.7-31.4-5.6z"/><path transform="translate(49.5 -27.54)" d="M413 240.2l31.4 5.6 20.8 2.3 26.6 6.9 16.4 5.2 19 1 31.7 5.6 1.5-.8-31.7-5.7-19-1.3-16.4-4.9-26.6-6.5-20.8-2.6-31.4-5.6z"/><path transform="translate(48.62 -27.06)" d="M413 240.2l31.4 5.6 20.8 2.2 26.6 7 16.4 5.5 19 .7 31.7 5.6 1.5-.8-31.7-5.6-19-1.2-16.4-5.1-26.6-6.7-20.8-2.4-31.4-5.6z"/><path transform="translate(47.74 -26.57)" d="M413 240.2l31.4 5.6 20.8 2 26.6 7.2 12.1 4.5 4.3 1.2 19 .5 31.7 5.6 1.5-.8-31.7-5.6-19-1-16.4-5.3-26.6-6.8-20.8-2.3-31.4-5.6z"/><path transform="translate(46.87 -26.08)" d="M413 240.2l31.4 5.6 16 1 4.8 .8 13.5 4.1 13.5 3.5 11.7 4.6 4.3 1.2 19 .3 31.7 5.5 1.5-.8-31.7-5.6-19-.7-4.3-1.2-12.1-4.3-26.6-7.1-20.8-2.1-31.4-5.6z"/><path transform="translate(45.99 -25.59)" d="M413 240.2l31.4 5.6 16.1 .8 4.7 .7 13.5 4.4 13.5 3.5 11.7 4.9 4.3 1.2 19 0 31.7 5.5 1.5-.8-31.7-5.6-19-.4-4.3-1.2-11.7-4.5-27-7.4-20.8-2-31.4-5.5z"/><path transform="translate(45.12 -25.11)" d="M413 240.2l31.4 5.5 16 .7 4.8 .7 13.5 4.5 13.5 3.7 11.7 5 4.3 1.3 3.7 .3 9.5-.8 5.8 .2 31.7 5.5 1.5-.8-31.7-5.6-19-.2-4.3-1.2-11.7-4.6-13.5-3.5-13.5-4.2-4.7-.7-16.1-1.1-31.4-5.5z"/><path transform="translate(44.24 -24.62)" d="M413 240.2l31.4 5.5 6.2 .5 9.8 0 4.8 .6 13.5 4.8 13.5 3.8 11.7 5.2 4.3 1.4 3.7 .2 9.5-1 5.8 .1 31.7 5.5 1.5-.8-31.7-5.5-5.8-.3-9.5 .6-3.7-.3-4.3-1.2-11.7-4.9-13.5-3.6-13.5-4.4-4.7-.7-16.1-.8-31.4-5.5z"/><path transform="translate(43.36 -24.13)" d="M413 240.2l31.4 5.5 6.2 .4 9.9-.2 4.7 .6 13.5 5 13.5 3.9 11.7 5.6 4.3 1.3 3.7 .2 9.5-1.2 5.8 .1 31.7 5.4 1.5-.8-31.7-5.5-5.8-.2-9.5 .8-3.7-.2-4.3-1.3-11.7-5.1-13.5-3.7-13.5-4.6-4.7-.7-9.9-.1-6.2-.5-31.4-5.5z"/><path transform="translate(42.49 -23.64)" d="M413 240.2l31.4 5.5 6.2 .3 9.8-.4 4.4 .5 13.9 5.3 13.5 4.1 11.7 5.8 4.3 1.4 3.7 .2 9.5-1.5 5.8 0 31.7 5.4 1.5-.8-31.7-5.5-5.8-.1-9.5 1-3.7-.2-4.3-1.3-11.7-5.4-13.5-3.8-13.5-4.8-4.7-.7-9.9 .2-6.2-.5-31.4-5.5z"/><path transform="translate(41.61 -23.16)" d="M413 240.2l31.4 5.5 6.2 .3 9.9-.7 4.3 .5 13.9 5.6 13.5 4.1 11.7 6.2 4.3 1.4 3.7 .1 9.5-1.7 5.8-.1 31.7 5.4 1.5-.8-31.7-5.5-5.8 0-9.5 1.3-3.7-.2-4.3-1.4-11.7-5.6-13.5-4-13.5-5-4.7-.6-9.9 .3-6.2-.4-31.4-5.5z"/><path transform="translate(40.74 -22.67)" d="M413 240.2l31.4 5.4 6.2 .2 9.8-.8 4.4 .4 13.9 5.9 13.5 4.3 11.6 6.4 4.4 1.5 3.7 .1 9.5-2 5.8-.1 31.7 5.3 1.5-.8-31.7-5.4-5.8 0-9.5 1.5-3.7-.1-4.3-1.4-11.7-5.9-13.5-4.1-13.9-5.4-4.3-.5-9.9 .5-6.2-.4-31.4-5.4z"/><path transform="translate(39.86 -22.18)" d="M413 240.2l31.4 5.4 6.2 .1 9.8-1.1 4.4 .5 3.7 1.2 10.2 4.9 13.5 4.5 11.7 6.7 4.3 1.6 3.7 0 9.5-2.2 5.8-.3 7.7 .9 24 4.4 1.5-.8-31.7-5.4-5.8 .1-9.5 1.8-3.7-.1-4.3-1.5-11.7-6.2-13.5-4.2-13.9-5.6-4.3-.5-9.9 .7-6.2-.3-31.4-5.4z"/><path transform="translate(38.98 -21.69)" d="M413 240.2l31.4 5.4 6.2 0 9.9-1.4 4.3 .4 3.7 1.4 10.2 5.1 13.9 4.8 11.3 6.9 4.3 1.6 3.7 0 9.5-2.5 5.8-.4 7.7 .9 24 4.4 1.5-.8-31.7-5.4-5.8 .2-9.5 2.1-3.7-.1-4.3-1.5-11.7-6.5-13.5-4.4-13.9-5.9-4.3-.5-9.9 1-6.2-.2-31.4-5.4z"/><path transform="translate(38.11 -21.21)" d="M413 240.2l31.4 5.4 6.2-.1 9.8-1.7 4.4 .4 3.7 1.4 10.5 5.6 13.5 4.8 11.4 7.3 4.3 1.6 3.7 0 9.5-2.9 5.8-.4 7.7 .9 24 4.3 1.5-.8-24-4.4-7.7-.9-5.8 .3-9.5 2.3-3.7 0-4.3-1.6-11.7-6.8-13.1-4.4-10.6-5.1-3.7-1.3-4.3-.4-9.9 1.2-6.2-.1-31.4-5.4z"/><path transform="translate(37.23 -20.72)" d="M413 240.2l30.3 5.2 6.2 .1 6.2-1.2 1.5-.3-6.2 .8-6.2-.2-30.3-5.2zM457.2 244l4.8-.7-1.5 .1-4.8 .9zM460.5 243.4l3.2 .1 3 .9 12 6.5 13.1 4.9 4 2.2 8.1 5.7 3.6 1.6 4 .1 9.9-3.2 5.8-.6 7.7 .9 24 4.3 1.5-.8-24-4.4-7.7-.9-5.8 .4-9.9 2.7-4-.2-3.6-1.5-8.1-5.2-4.3-2.3-12.8-4.3-12-6-3-.8-3.2-.2z"/><path transform="translate(36.36 -20.23)" d="M413 240.2l29.9 5.2 5.9 .1 5.8-1.2 1.5-.4-5.8 .9-5.9-.2-29.9-5.2zM456.1 243.9l6.9-1.1-1.5 .1-6.9 1.4zM461.5 242.9l5.1 1 12.1 6.9 13.1 5 4 2.4 8 6 3.7 1.6 4 .1 9.9-3.6 5.8-.7 7.7 .9 24 4.3 1.5-.8-24-4.4-7.7-.9-5.8 .5-9.9 3-4-.1-3.6-1.5-8.1-5.5-4-2.2-13.1-4.7-12-6.4-5.2-1z"/><path transform="translate(35.48 -19.74)" d="M413 240.2l29.6 5.1 5.8 .1 5.1-1 1.5-.5-5.1 .8-5.8-.2-29.6-5.1zM455 243.9l5.5-1.3 3.3-.2-1.5 0-3.3 .3-5.5 1.7zM462.3 242.4l4.7 1.2 11.7 7.1 13.5 5.4 4 2.6 7.3 5.8 4 1.9 4 0 9.9-3.9 5.8-.8 7.7 .8 24 4.3 1.5-.8-24-4.4-7.7-.8-5.8 .6-9.9 3.3-4-.1-4-1.8-11.3-7.7-13.5-5-11.7-6.6-4.7-1.1z"/><path transform="translate(34.6 -19.26)" d="M413 240.2l29.2 5.1 5.5 .1 5.1-1.1 1.5-.4-5.1 .8-5.5-.2-29.2-5.1zM454.3 243.9l6.2-1.7 3.6-.3-1.5-.1-3.6 .5-6.2 2zM462.6 241.8l2.6 .5 2.5 1.1 11.7 7.6 12.8 5.2 4 2.7 7.3 6.1 4 2 4 0 9.9-4.3 5.8-1 7.7 .8 24 4.3 1.5-.8-24-4.4-7.7-.8-5.8 .7-9.9 3.7-4 0-4-1.9-7.3-5.6-4-2.5-12.8-4.9-11.6-6.9-5.2-1.5z"/><path transform="translate(33.73 -18.77)" d="M413 240.2l28.8 5 5.5 .1 4.8-1 1.5-.4-4.8 .7-5.4-.2-28.9-5zM453.6 243.9l7.3-2.2 3.6-.3-1.5-.1-3.6 .4-7.3 2.6zM463 241.3l4.7 1.6 11.7 8 13.1 5.6 3.7 2.6 7.3 6.4 4 2.1 4-.1 9.9-4.7 5.8-1 7.7 .7 24 4.3 1.5-.8-24-4.4-7.7-.8-5.8 .9-9.9 4-4 0-4-1.9-7.3-5.9-4-2.6-12.8-5.1-11.7-7.3-4.7-1.5z"/><path transform="translate(32.85 -18.28)" d="M413 240.2l28.5 4.9 5.5 .2 4.7-1 1.5-.5-4.7 .8-5.5-.3-28.5-4.9zM453.2 243.8l7.7-2.6 4-.3-1.5-.2-4 .5-7.7 3.1zM463.4 240.7l4.7 1.9 11.3 8.2 13.1 5.8 3.7 2.7 7.3 6.7 4 2.2 4-.1 9.9-5.1 5.8-1.2 7.7 .7 24 4.3 1.5-.8-24-4.4-7.7-.7-5.8 1-9.9 4.4-4 0-4-2-10.9-8.7-13.2-5.5-11.3-7.4-4.7-1.8z"/><path transform="translate(31.98 -17.79)" d="M413 240.2l28.1 4.9 5.5 .1 4.4-.9 1.5-.5-4.4 .7-5.5-.2-28.1-4.9zM452.5 243.8l8.4-3.1 4.3-.3-1.5-.2-4.3 .4-8.4 3.7zM463.7 240.2l4.4 1.8 11.3 8.6 13.1 6.1 3.7 2.9 7.3 7 4 2.3 1.8 .2 2.2-.4 9.9-5.5 5.8-1.4 7.7 .7 24 4.3 1.5-.8-24-4.4-7.7-.7-5.8 1.1-9.9 4.8-4 .1-4-2.1-7.3-6.5-3.7-2.6-13.4-5.9-11-7.7-4.4-1.7z"/><path transform="translate(31.1 -17.31)" d="M413 240.2l27.8 4.8 5.4 .2 4.4-1 1.5-.5-4.4 .8-5.4-.3-27.8-4.8zM452.1 243.7l8.8-3.5 4.3-.4-1.5-.3-4.3 .6-8.8 4.1zM463.7 239.5l4.4 2 11.3 9 13.1 6.4 3.7 2.9 7.3 7.3 4 2.4 1.8 .2 2.2-.4 9.9-5.9 5.8-1.5 7.7 .6 24 4.3 1.5-.8-24-4.4-7.7-.6-5.8 1.2-9.9 5.2-4 .2-4-2.3-7.3-6.7-3.6-2.8-13.2-5.9-11.3-8.3-4.4-1.8z"/><path transform="translate(30.22 -16.82)" d="M413 240.2l27.8 4.8 5.1 .1 4.3-.9 1.5-.6-4.3 .8-5.1-.2-27.8-4.8zM451.7 243.6l9.5-4.1 4.4-.3-1.5-.3-2.2-.1-2.2 .5-9.5 4.9zM464.1 238.9l4 2 11 9.3 10.5 5 3.3 2 3.7 3.2 6.9 7.3 4 2.5 1.8 .2 2.2-.5 9.9-6.3 2.9-1.2 2.9-.4 7.7 .5 24 4.3 1.5-.8-24-4.4-7.7-.6-5.8 1.4-9.9 5.6-2.2 .4-1.8-.2-4-2.3-7.3-7.1-3.6-2.9-13.5-6.3-11-8.6-4-1.8z"/><path transform="translate(29.35 -16.33)" d="M413 240.2l27.4 4.8 5.1 .1 4.4-1 1.5-.5-4.4 .8-5.1-.3-27.4-4.7zM451.4 243.6l9.8-4.7 2.2-.5 2.2 .1-1.5-.3-2.2-.1-2.2 .6-9.8 5.4zM464.1 238.2l4 2.1 10.9 9.7 10.6 5.3 3.3 2.1 3.7 3.3 6.9 7.6 4 2.6 1.8 .2 2.2-.6 9.9-6.7 2.9-1.3 2.9-.5 7.7 .5 24 4.3 1.5-.8-24-4.4-7.7-.5-5.8 1.5-9.9 6-2.2 .5-1.8-.2-4-2.4-7.3-7.5-3.6-3-13.5-6.6-11-8.9-4-2z"/><path transform="translate(28.47 -15.84)" d="M413 240.2l27.4 4.7 5.1 .1 4-.9 1.5-.6-4 .8-5.1-.2-27.4-4.7zM451 243.5l10.2-5.2 2.6-.6 2.2 .2-1.5-.3-2.2-.2-2.6 .7-10.2 6zM464.5 237.6l4 2.3 10.6 10 10.5 5.4 3.3 2.2 3.7 3.5 6.9 7.9 4 2.7 1.8 .2 2.2-.6 9.9-7.2 2.9-1.3 2.9-.6 7.7 .4 24 4.3 1.5-.8-24-4.4-7.7-.5-2.9 .5-2.9 1.2-9.9 6.4-2.2 .6-1.8-.3-4-2.4-6.9-7.4-3.7-3.3-3.3-2-10.5-5.1-10.6-9.2-4-2.2z"/><path transform="translate(27.6 -15.36)" d="M413 240.2l27 4.7 5.1 .1 4-.9 1.5-.6-4 .8-5.1-.2-27-4.7zM450.6 243.5l10.6-5.8 2.6-.7 2.2 .2-1.5-.4-2.2-.2-2.6 .8-7.3 5-3.3 1.7zM464.5 236.8l4 2.5 6.9 7.3 3.6 3.2 10.6 5.6 3.3 2.3 3.7 3.6 6.9 8.3 2.2 1.8 1.8 .9 1.8 .2 2.2-.6 9.9-7.7 2.9-1.4 2.9-.7 7.7 .4 24 4.3 1.5-.8-24-4.3-7.7-.5-2.9 .5-2.9 1.3-9.9 6.9-2.2 .6-1.8-.2-4-2.6-6.9-7.8-3.7-3.3-3.3-2.2-10.5-5.2-10.6-9.7-4-2.3z"/><path transform="translate(26.72 -14.87)" d="M413 240.2l26.7 4.6 5.1 .2 4-.9 1.5-.6-4 .7-5.1-.2-26.7-4.6zM450.3 243.5l3.3-1.5 7.6-4.9 2.6-.8 2.2 .2-1.5-.4-2.2-.2-2.6 .9-7.6 5.5-3.3 1.8zM464.5 236.1l4 2.5 6.9 7.7 3.7 3.3 10.5 5.8 3.3 2.4 3.7 3.7 6.9 8.7 2.2 1.9 1.8 1 1.8 .1 2.2-.7 9.9-8.1 2.9-1.5 2.9-.7 7.7 .3 24 4.3 1.5-.8-24-4.3-7.7-.5-2.9 .7-2.9 1.3-9.9 7.3-2.2 .7-1.8-.2-4-2.7-6.9-8.1-3.7-3.5-3.3-2.2-10.5-5.5-10.6-10.1-4-2.4z"/><path transform="translate(25.84 -14.38)" d="M413 240.2l26.7 4.6 4.7 .2 4-.9 1.5-.6-4 .7-4.7-.2-26.7-4.6zM449.9 243.5l3.7-1.8 8-5.5 2.5-.6 2.2 .3-1.5-.5-2.2-.3-2.5 .8-8 6.1-3.7 2.1zM464.8 235.4l3.7 2.5 6.9 8.1 3.7 3.5 3.2 2.2 7.3 3.8 3.3 2.4 3.7 3.9 6.9 9 2.2 2.1 1.8 .9 1.8 .2 2.2-.8 9.9-8.6 2.9-1.6 2.9-.8 7.7 .3 24 4.3 1.5-.8-24-4.3-7.7-.4-2.9 .7-2.9 1.4-9.9 7.8-2.2 .7-1.8-.2-1.8-.9-2.2-1.9-6.9-8.4-3.7-3.6-3.3-2.3-10.5-5.7-3.7-3.2-6.9-7.4-3.7-2.4z"/><path transform="translate(24.97 -13.89)" d="M413 240.2l26.7 4.6 4.7 .1 4-1 1.5-.6-4 .9-4.7-.2-26.7-4.6zM449.9 243.3l3.7-1.9 8-5.9 2.5-.7 2.2 .3-1.5-.5-2.2-.3-2.5 .8-8 6.6-3.7 2.2zM464.8 234.6l3.7 2.6 6.9 8.5 3.6 3.6 3.3 2.3 7.3 4 3.7 2.8 3.3 3.7 6.5 9 2.9 2.7 2.2 .9 2.6-.4 2.5-1.8 3.7-3.6 1.5-1.6-3.7 3.4-2.5 1.5-2.6 .4-2.2-.9-2.9-2.6-6.5-8.3-3.3-3.5-3.7-2.7-10.5-5.9-3.7-3.3-6.9-7.8-3.7-2.5zM518.5 267.3l2.9-2.6-1.5 1.3-2.9 2.9zM519.9 266l4.7-3 5.5-.9 6.9 .7 21.9 4 1.5-.8-21.8-4-7-.8-5.5 .7-4.7 2.8z"/><path transform="translate(24.09 -13.41)" d="M413 240.2l26.3 4.6 4.7 .1 4-1 1.6-.6-4.1 .8-4.7-.1-26.3-4.6zM449.6 243.3l3.6-1.9 8.4-6.6 2.5-.8 2.2 .3-1.5-.5-2.2-.3-2.5 .9-8.4 7.3-3.7 2.2zM464.8 233.8l3.7 2.8 6.9 8.7 3.7 3.9 3.2 2.4 7.3 4 3.7 3 3.3 3.8 6.5 9.3 2.9 2.9 2.2 .9 2.2-.3 2.6-1.7 3.3-3.4 1.5-1.6-3.3 3.1-2.6 1.5-2.2 .2-2.1-.8-3-2.7-6.5-8.7-3.3-3.6-3.7-2.8-7.3-3.9-3.2-2.2-3.7-3.5-6.9-8.2-3.7-2.6zM517.8 268.5l4.7-4.4-1.5 1.2-4.7 4.8zM521 265.3l4.4-2.5 5.4-.7 28.1 4.7 1.5-.8-28-4.7-5.5 .5-4.4 2.3z"/><path transform="translate(23.22 -12.92)" d="M413 240.2l25.9 4.5 4.8 .2 4-1 1.5-.6-4 .8-4.8-.2-25.9-4.5zM449.2 243.3l4-2.2 8.4-7 2.5-.9 2.2 .3-1.5-.5-2.2-.3-2.5 1-8.4 7.7-4 2.5zM464.8 233l3.7 2.8 6.9 9.2 3.6 4 3.3 2.5 7.3 4.2 3.7 3 3.3 4 6.2 9.2 2.9 3.1 2.2 1.2 2.1-.2 2.6-1.5 2.9-3.1 1.5-1.7-2.9 2.8-2.5 1.4-2.2 .1-2.2-1.1-2.9-2.9-6.2-8.6-3.3-3.8-3.7-2.9-7.3-3.9-3.2-2.4-3.7-3.7-6.9-8.5-3.7-2.7zM517 269.7l5.9-5.7-1.5 1.2-5.9 6.2zM521.4 265.2l4.3-2.4 5.5-.6 27.7 4.6 1.5-.8-27.7-4.7-5.5 .5-4.3 2.2z"/><path transform="translate(22.34 -12.43)" d="M413 240.2l25.9 4.5 4.8 .1 4-1 1.5-.6-4 .9-4.8-.2-25.9-4.5zM449.2 243.2l4-2.4 8.4-7.4 2.5-1 2.2 .3-1.5-.6-2.2-.3-2.5 1.1-8.4 8.3-4 2.6zM464.8 232.1l3.7 3 6.9 9.6 3.7 4.1 3.2 2.6 7.3 4.3 3.7 3.2 3.3 4.1 6.2 9.5 2.9 3.3 2.2 1.1 2.2-.1 2.1-1.4 3-3 1.5-1.8-3 2.8-2.1 1.3-2.2 .1-2.2-1.1-2.9-3.1-6.2-8.9-3.3-3.9-3.7-3-7.3-4.1-3.2-2.4-3.7-3.9-6.9-8.9-3.7-2.8zM516.7 270.6l6.9-6.9-1.5 1.2-6.9 7.5zM522.1 264.9l4.4-2.3 5.1-.4 27.3 4.6 1.5-.8-27.3-4.7-5.1 .4-4.4 2z"/><path transform="translate(21.46 -11.94)" d="M413 240.2l25.9 4.5 4.8 .1 3.6-1 1.5-.6-3.6 .8-4.8-.1-25.9-4.5zM448.8 243.2l4.4-2.7 8.4-7.9 2.5-1 2.2 .3-1.5-.6-2.2-.3-2.5 1.2-8.4 8.7-4.4 2.9zM464.8 231.3l3.7 3.1 6.9 10 3.7 4.3 3.2 2.7 7.3 4.4 3.7 3.3 3.3 4.2 6.2 9.8 2.9 3.4 2.2 1.2 2.2-.2 2.1-1.4 2.6-2.7 1.5-1.8-2.5 2.5-2.2 1.3-2.2 .1-2.2-1.1-2.9-3.2-6.2-9.2-3.3-4.1-3.7-3-7.3-4.3-3.2-2.5-3.7-4-6.9-9.3-3.7-2.9zM516.3 271.6l4.7-5.4 3-2.6-1.5 1.2-3 2.7-4.7 5.9zM522.5 264.8l4-2.1 5.1-.5 27.3 4.6 1.5-.8-27.3-4.7-5.1 .4-4 1.9z"/><path transform="translate(20.59 -11.46)" d="M413 240.2l25.6 4.5 4.7 .1 3.6-.9 1.6-.7-3.7 .8-4.7-.2-25.6-4.4zM448.5 243.2l4.3-2.6 8.8-8.7 2.5-1.1 2.2 .3-1.5-.6-2.2-.3-2.5 1.2-8.8 9.5-4.4 3zM464.8 230.5l3.7 3.2 6.9 10.3 3.6 4.5 3.3 2.8 7.7 4.8 3.3 3.1 3.3 4.4 6.2 10.1 2.9 3.5 2.2 1.3 1.8-.1 2.2-1.3 2.5-2.7 1.5-1.8-2.5 2.5-2.2 1.2-1.8 0-2.2-1.2-2.9-3.3-6.2-9.5-3.3-4.2-3.7-3.2-7.3-4.3-3.2-2.6-3.7-4.2-6.9-9.7-3.7-3zM515.9 272.6l5.1-6.1 3.3-3-1.5 1.2-3.3 3.1-5.1 6.6zM522.8 264.7l4-2.1 5.1-.4 27 4.6 1.5-.8-27-4.6-5.1 .3-4 1.8z"/><path transform="translate(19.71 -10.97)" d="M413 240.2l25.6 4.4 4.7 .1 3.7-.9 1.5-.7-3.7 .9-4.7-.2-25.6-4.4zM448.5 243.1l4.3-2.8 8.8-9.2 2.5-1.2 2.2 .3-1.5-.6-2.2-.2-2.5 1.3-8.8 10-4.3 3.1zM464.8 229.6l3.7 3.4 6.9 10.7 3.7 4.6 3.2 2.9 7.7 5 3.3 3.2 3.3 4.5 6.2 10.5 2.9 3.6 2.2 1.2 1.8-.1 2.2-1.3 2.2-2.4 1.5-1.8-2.2 2.2-2.2 1.2-1.8 .1-2.2-1.2-2.9-3.4-6.2-9.9-3.3-4.3-3.7-3.3-7.3-4.5-3.2-2.7-3.7-4.4-6.9-10-3.7-3.2zM515.6 273.6l5.4-6.8 3.7-3.4-1.5 1.1-3.7 3.6-5.4 7.3zM523.2 264.5l4-1.9 5.1-.3 26.6 4.5 1.5-.8-26.6-4.6-5.1 .3-4 1.7z"/><path transform="translate(18.83 -10.48)" d="M413 240.2l25.6 4.4 4.3 .1 3.7-.9 1.5-.6-3.6 .8-4.4-.2-25.6-4.4zM448.1 243.2l4.7-3.2 8.8-9.6 2.2-1.2 2.2 .1-1.5-.6-2.2-.1-2.2 1.3-8.8 10.5-4.7 3.4zM464.5 228.7l1.8 1.1 2.2 2.4 6.9 11.2 3.7 4.8 3.2 3 7.7 5.1 3.3 3.2 3.3 4.7 6.2 10.8 2.5 3.3 2.2 1.5 1.8 .2 2.2-1.2 2.2-2.4 1.5-1.8-2.2 2.2-2.2 1-1.8-.1-2.2-1.4-2.5-3.2-6.2-10.2-3.3-4.5-3.3-3.1-7.7-4.9-3.2-2.8-3.7-4.5-6.9-10.5-2.2-2.3-1.8-1zM515.2 274.6l6.2-8 3.7-3.3-1.5 1.1-3.7 3.5-6.2 8.5zM523.6 264.4l4-1.8 4.7-.3 26.6 4.5 1.5-.8-26.6-4.6-4.7 .2-4 1.7z"/><path transform="translate(17.96 -9.99)" d="M413 240.2l25.6 4.4 4.3 .1 3.7-1 1.5-.6-3.7 .8-4.3-.1-25.6-4.4zM448.1 243.1l4.7-3.4 8.8-10.1 2.2-1.2 2.2 0-1.5-.6-2.2 0-2.2 1.4-8.8 10.9-2.2 2.1-2.5 1.5zM464.5 227.8l1.8 1.2 2.2 2.5 6.9 11.6 3.6 4.9 3.3 3.1 7.7 5.2 3.3 3.4 3.3 4.8 6.2 11.1 2.5 3.4 2.2 1.6 1.8 .1 1.8-1 2.2-2.2 1.5-1.9-2.1 2.1-1.9 .9-1.8-.1-2.2-1.5-2.5-3.3-6.2-10.6-3.3-4.5-3.3-3.2-7.7-5-3.2-2.9-3.7-4.7-6.9-10.9-2.2-2.4-1.8-1.1zM514.8 275.6l6.6-8.7 4-3.7-1.5 1.1-4 3.9-6.6 9.3zM523.9 264.3l4-1.8 4.8-.2 26.2 4.5 1.5-.8-26.2-4.5-4.8 .1-4 1.6z"/><path transform="translate(17.08 -9.51)" d="M413 240.2l25.6 4.4 4.3 .1 3.7-1.1 1.5-.6-3.6 .9-4.4-.1-25.6-4.4zM448.1 243l4.7-3.5 8.8-10.6 2.2-1.3 2.2 0-1.5-.6-2.2 0-2.2 1.4-8.8 11.5-2.2 2.1-2.5 1.6zM464.5 227l1.8 1.2 2.2 2.6 6.9 12 3.7 5.1 3.2 3.1 7.7 5.4 3.3 3.4 3.3 5 6.2 11.3 2.5 3.6 1.8 1.4 1.9 .3 1.8-.7 2.2-2.2 1.5-1.8-2.2 2-1.8 .7-1.9-.4-1.8-1.3-2.5-3.4-6.2-10.9-3.3-4.7-3.3-3.2-7.7-5.2-3.2-3-3.7-4.8-6.9-11.3-2.2-2.5-1.8-1.1zM514.5 276.7l6.9-9.5 4-3.8-1.5 1-4 4.1-6.9 10zM523.9 264.4l4-1.8 4.8-.3 26.2 4.5 1.5-.8-26.2-4.5-4.8 .2-4 1.7z"/><path transform="translate(16.21 -9.02)" d="M413 240.2l25.2 4.4 4.4 .1 3.6-1 1.5-.7-3.6 .9-4.4-.2-25.2-4.3zM447.7 243l2.6-1.4 2.5-2.4 8.8-11.1 2.2-1.3 2.2 0-1.5-.6-2.2 0-2.2 1.5-8.8 11.9-2.5 2.5-2.6 1.6zM464.5 226.2l1.8 1.2 2.2 2.7 6.9 12.3 3.6 5.3 3.3 3.3 7.7 5.5 3.3 3.5 3.3 5 6.2 11.7 2.5 3.6 1.8 1.5 1.9 .3 1.8-.8 2.2-2.2 1.5-1.8-2.2 2.1-1.8 .7-1.9-.3-1.8-1.4-2.5-3.5-6.2-11.2-3.3-4.8-3.3-3.4-7.7-5.3-3.2-3.1-3.7-5-6.9-11.6-2.2-2.6-1.8-1.1zM514.5 277.3l7.3-10.3 4-3.8-1.5 1.1-4 3.9-7.3 10.9zM524.3 264.3l4-1.8 4.7-.1 25.9 4.4 1.5-.8-25.9-4.5-4.7 .1-4 1.6z"/><path transform="translate(15.33 -8.53)" d="M413 240.2l25.2 4.4 4.4 0 3.6-1 1.5-.7-3.6 .9-4.4-.1-25.2-4.3zM447.7 242.9l2.6-1.5 2.5-2.5 8.8-11.5 2.2-1.4 2.2 0-1.5-.5-2.2 0-2.2 1.5-8.8 12.3-2.5 2.7-2.6 1.6zM464.5 225.5l1.8 1.2 2.2 2.8 6.9 12.6 3.7 5.5 3.2 3.3 7.7 5.6 3.6 4.1 3.3 5.4 5.9 11.3 2.5 3.7 1.8 1.5 1.9 .3 1.8-.8 1.8-1.9 1.5-1.8-1.8 1.7-1.8 .8-1.9-.3-1.8-1.5-2.5-3.5-6.2-11.5-3.3-5-3.3-3.4-7.7-5.4-3.2-3.2-3.7-5.2-6.9-12-2.2-2.7-1.8-1.1zM514.1 278.3l7.7-11.1 4.4-4.1-1.6 1-4.3 4.4-7.7 11.6zM524.6 264.1l3.7-1.5 4.7-.2 25.9 4.4 1.5-.8-25.9-4.5-4.7 .2-3.6 1.4z"/><path transform="translate(14.45 -8.04)" d="M413 240.2l25.2 4.4 4.4 0 3.6-1 1.5-.7-3.6 .9-4.4-.1-25.2-4.3zM447.7 242.9l2.6-1.7 2.5-2.5 8.8-12 2.2-1.5 2.2 0-1.5-.5-2.2 0-2.2 1.6-8.8 12.8-2.5 2.7-2.6 1.8zM464.5 224.7l1.8 1.3 2.2 2.8 6.9 13 3.7 5.6 3.2 3.4 7.7 5.8 3.6 4.2 3.3 5.4 5.9 11.6 2.5 3.8 1.8 1.5 1.5 .4 1.8-.6 1.8-1.7 1.6-1.9-1.9 1.6-1.8 .6-1.5-.3-1.8-1.5-2.5-3.7-5.9-11.1-3.2-5.2-3.7-4.1-7.7-5.5-3.2-3.3-3.7-5.3-6.9-12.4-2.2-2.7-1.8-1.2zM513.8 279.3l8-11.8 4.4-4.3-1.6 1-4.3 4.5-8.1 12.5zM524.6 264.2l3.7-1.6 4.7-.2 25.9 4.4 1.5-.8-25.9-4.5-4.7 .2-3.6 1.5z"/><path transform="translate(13.58 -7.56)" d="M413 240.2l24.8 4.3 4.4 .1 3.7-.9 1.5-.8-3.7 .9-4.4-.1-24.8-4.3zM447.4 242.9l2.5-1.5 2.6-2.5 9.1-12.9 2.2-1.6 1.8-.1-1.5-.4-1.8 .1-2.2 1.7-9.1 13.6-2.6 2.7-2.5 1.7zM464.1 223.9l1.8 1 2.2 2.7 7.7 14.6 3.6 5.5 3.3 3.4 7.3 5.5 3.3 3.8 3.3 5.4 6.2 12.5 2.5 3.9 1.8 1.6 1.5 .3 1.8-.6 1.8-1.8 1.5-1.8-1.8 1.7-1.8 .6-1.5-.4-1.8-1.5-2.5-3.7-6.2-12.1-3.3-5.2-3.3-3.6-7.3-5.4-3.3-3.2-3.6-5.3-7.7-13.9-2.2-2.6-1.8-1zM513.7 279.9l8.4-12.7 4.4-4.1-1.5 .9-4.4 4.4-8.4 13.3zM525 264l3.7-1.4 4.7-.2 25.5 4.4 1.5-.8-25.5-4.4-4.7 .1-3.7 1.4z"/><path transform="translate(12.7 -7.07)" d="M413 240.2l24.8 4.3 4.4 .1 3.7-1 1.5-.7-3.7 .9-4.4-.1-24.8-4.3zM447.4 242.9l2.5-1.6 2.6-2.6 9.1-13.4 2.2-1.6 1.8-.2-1.5-.3-1.8 .1-2.2 1.7-9.1 14.1-2.6 2.8-2.5 1.7zM464.1 223.2l1.8 1 2.2 2.8 7.7 15 3.6 5.6 3.3 3.4 7.3 5.7 3.6 4.3 11.4 21.3 1.8 1.8 1.4 .6 1.9-.4 1.8-1.6 1.5-1.8-1.8 1.5-1.5 .4-1.5-.3-1.8-1.6-2.5-3.8-6.2-12.3-3.3-5.3-3.3-3.7-7.3-5.5-3.3-3.3-3.6-5.4-7.7-14.4-2.2-2.6-1.8-1.1zM513.4 280.9l8.7-13.5 4.4-4.3-1.5 1-4.4 4.5-8.7 14.1zM525 264.1l3.7-1.5 4.7-.2 25.5 4.4 1.5-.8-25.5-4.4-4.7 .1-3.7 1.4z"/><path transform="translate(11.83 -6.58)" d="M413 240.2l24.8 4.3 4.4 .1 3.7-1.1 1.5-.7-3.7 1-4.4-.1-24.8-4.3zM447.4 242.8l2.5-1.7 2.6-2.7 9.1-13.8 2.2-1.6 1.8-.2-1.5-.3-1.8 .2-2.2 1.7-9.1 14.5-2.6 2.9-2.5 1.7zM464.1 222.5l1.8 1.1 2.2 2.8 7.7 15.3 3.6 5.8 3.3 3.5 7.3 5.7 3.6 4.5 11.3 21.6 1.9 1.9 1.4 .6 1.9-.5 1.8-1.6 1.5-1.8-1.8 1.6-1.9 .4-1.4-.5-1.8-1.8-11.4-21-3.6-4.3-7.3-5.6-3.3-3.3-3.6-5.6-7.7-14.7-2.2-2.7-1.8-1.1zM513.4 281.4l8.7-13.8 2.2-2.6 2.6-2-1.5 .9-2.6 2.2-2.2 2.7-8.7 14.4zM525.4 263.9l3.6-1.3 4.4-.2 25.5 4.4 1.5-.8-25.5-4.4-4.4 .1-3.6 1.3z"/><path transform="translate(10.95 -6.09)" d="M413 240.2l24.8 4.3 4.4 0 3.7-1 1.5-.8-3.7 1-4.4 0-24.8-4.3zM447.4 242.7l2.5-1.7 2.6-2.8 9.1-14.2 1.8-1.5 1.8-.4-1.5-.3-1.8 .4-1.8 1.7-9.1 14.8-2.6 2.9-2.5 1.9zM463.7 221.8l2.2 1.2 2.2 2.8 7.7 15.7 3.6 5.9 3.3 3.5 7.3 5.9 3.3 3.9 2.9 5 6.2 13.3 2.5 4.3 1.9 1.9 1.4 .6 1.5-.3 1.8-1.4 1.5-1.7-1.8 1.4-1.5 .2-1.4-.6-1.8-1.8-11.7-21.9-3.3-3.8-7.3-5.7-3.3-3.5-3.6-5.7-7.7-15-2.2-2.8-2.2-1.1zM513 282.4l2.2-2.9 6.9-11.7 2.2-2.7 2.6-2-1.5 .9-2.6 2.2-2.2 2.8-6.9 12-2.2 3.1zM525.4 264l3.6-1.4 4.4-.2 25.5 4.4 1.5-.8-25.5-4.4-4.4 .1-3.6 1.4z"/><path transform="translate(10.07 -5.61)" d="M413 240.2l24.5 4.3 4.4 .1 3.6-1 1.5-.8-3.6 1-4.4-.2-24.5-4.2zM447 242.8l2.9-1.9 2.6-2.9 9.1-14.6 1.8-1.6 1.8-.4-1.5-.2-1.8 .5-1.8 1.6-9.1 15.3-2.6 2.9-2.9 2.1zM463.7 221.2l2.2 1.2 2.2 2.9 7.7 16 3.6 6 3.3 3.6 7.3 5.9 3.6 4.6 11.4 22.4 1.8 1.9 1.4 .6 1.5-.3 1.8-1.5 1.5-1.6-1.8 1.4-1.5 .3-1.4-.6-1.8-1.9-2.6-4.3-6.2-13-2.9-5-3.3-3.9-7.3-5.8-3.3-3.5-3.6-5.8-7.7-15.4-2.2-2.8-2.2-1.2zM513 282.9l9.5-15.4 2.2-2.6 2.6-2-1.6 .9-2.5 2.1-2.2 2.7-9.5 15.9zM525.7 263.8l3.7-1.3 4.4 0 25.1 4.3 1.5-.8-25.1-4.4-4.4 .1-3.6 1.2z"/><path transform="translate(9.2 -5.12)" d="M413 240.2l24.5 4.3 4.3 0 3.7-1 1.5-.7-3.6 .9-4.4-.1-24.5-4.2zM447 242.8l2.9-2 2.6-3 9.1-14.9 1.8-1.7 1.8-.4-1.5-.1-1.8 .4-1.8 1.8-9.1 15.5-2.6 3-2.9 2.1zM463.7 220.7l2.2 1.2 2.2 2.9 7.7 16.3 3.6 6.1 3.3 3.7 7.3 6 3.6 4.6 11.3 22.7 1.5 1.7 1.5 .8 1.4-.1 1.8-1.2 1.6-1.6-1.9 1.2-1.4 0-1.5-.8-1.4-1.6-2.6-4.3-6.2-13.4-2.9-5-3.3-3.9-7.3-5.9-3.3-3.6-3.6-5.9-7.7-15.7-2.2-2.9-2.2-1.2zM512.7 283.8l2.5-3.5 7.3-12.6 2.2-2.7 2.5-2-1.5 .9-2.5 2.1-2.2 2.7-7.3 13.1-2.6 3.6zM525.7 263.9l3.7-1.3 4.4-.1 25.1 4.3 1.5-.8-25.1-4.4-4.4 .1-3.7 1.3z"/><path transform="translate(8.32 -4.63)" d="M413 240.2l24.5 4.2 4.3 .1 3.7-1 1.5-.8-3.6 1-4.4-.1-24.5-4.2zM447 242.7l2.9-2 2.6-3 9.1-15.3 1.8-1.7 1.8-.5-1.5 0-1.8 .5-1.8 1.7-9.1 15.8-2.6 3.1-2.9 2.2zM463.7 220.2l2.2 1.2 2.2 3 7.7 16.5 3.6 6.2 3.3 3.7 7.3 6.1 3.6 4.7 11.4 23 1.4 1.7 1.5 .8 1.4-.1 1.9-1.3 1.5-1.5-1.9 1.3-1.4 0-1.5-.8-1.4-1.6-11.3-22.5-3.7-4.6-7.3-6-3.3-3.6-3.6-6-7.7-16.1-2.2-2.9-2.2-1.2zM512.7 284.2l2.5-3.5 7.3-12.9 2.2-2.7 2.5-2.1-1.5 .9-2.5 2.2-2.2 2.8-7.3 13.2-2.5 3.6zM525.7 263.9l3.7-1.3 4.4-.1 25.1 4.3 1.5-.8-25.1-4.4-4.4 .1-3.7 1.3z"/><path transform="translate(7.45 -4.14)" d="M413 240.2l24.5 4.2 4.3 .1 3.7-1 1.5-.8-3.7 1-4.3-.1-24.5-4.2zM447 242.7l2.9-2.1 2.6-3.1 9.1-15.6 1.8-1.7 1.5-.5-1.5 0-1.5 .5-1.8 1.8-9.1 16.1-2.6 3.2-2.9 2.2zM463.4 219.7l2.2 .9 2.5 3.4 7.7 16.7 3.6 6.3 3.3 3.8 7.3 6.1 3.3 4.2 2.9 5.3 6.2 14 2.5 4.6 1.5 1.6 1.5 .9 1.4-.1 1.5-1 1.5-1.4-1.5 .9-1.4 .1-1.5-.9-1.4-1.6-2.6-4.5-6.2-13.7-2.9-5.2-3.3-4.1-7.3-6-3.3-3.7-3.6-6.1-7.7-16.3-2.5-3.3-2.2-.9zM512.3 285l2.9-3.9 7.3-13.2 2.6-3.1 2.5-2-1.5 1-2.6 2-2.5 3.2-7.3 13.4-2.9 4zM526.1 263.8l3.6-1.3 4.4 0 24.8 4.3 1.5-.8-24.8-4.3-4.3 0-3.7 1.1z"/><path transform="translate(6.57 -3.66)" d="M413 240.2l24.5 4.2 4.3 .1 3.7-1.1 1.5-.8-3.6 1.1-4.4-.1-24.5-4.2zM447 242.6l2.9-2.1 2.6-3.1 9.1-16 1.8-1.7 1.5-.5-1.5 .1-1.5 .5-1.8 1.8-9.1 16.4-2.6 3.2-2.9 2.2zM463.4 219.3l2.2 .9 2.5 3.5 7.7 16.9 3.6 6.3 3.3 3.9 7.3 6.2 3.3 4.2 2.9 5.3 6.2 14.1 2.5 4.7 1.5 1.7 1.5 .8 1.4-.1 1.5-.9 1.5-1.4-1.5 .9-1.4 .1-1.5-.9-1.4-1.6-2.6-4.6-6.2-13.9-2.9-5.2-3.3-4.1-7.3-6.1-3.3-3.8-3.6-6.2-7.7-16.5-2.5-3.4-2.2-.9zM512.3 285.4l2.9-4 7.3-13.3 2.6-3.2 2.5-2-1.5 .9-2.5 2-2.6 3.3-7.3 13.6-2.9 4.1zM526.1 263.8l3.7-1.3 4.3 0 24.8 4.3 1.5-.8-24.8-4.3-4.3 0-3.7 1.2z"/><path transform="translate(5.69 -3.17)" d="M413 240.2l24.5 4.2 4.4 .1 3.6-1.1 1.5-.8-3.6 1.1-4.4-.1-24.5-4.2zM447 242.6l2.6-1.8 2.1-2.5 9.2-16.2 1.8-2.3 1.8-1-1.5 .2-1.8 1.1-1.8 2.3-9.2 16.5-2.1 2.6-2.6 1.9zM463 219l2.2 .6 2.5 3.1 8.4 18.5 3.7 6.2 2.9 3.3 7.3 6.3 3.3 4.2 2.9 5.4 6.2 14.3 2.6 4.6 1.4 1.7 1.5 .9 1.4-.1 1.5-1 1.5-1.3-1.5 1-1.4 0-1.5-.8-1.4-1.7-2.6-4.6-6.2-14-2.9-5.3-3.3-4.2-7.3-6.2-2.9-3.2-3.7-6.1-8.3-18.1-2.6-3.1-2.2-.6zM512.3 285.7l2.9-4 7.3-13.5 2.6-3.3 2.5-2-1.5 .9-2.5 2.1-2.6 3.3-7.3 13.7-2.9 4.1zM526.1 263.8l3.7-1.3 4.3 0 24.8 4.3 1.5-.8-24.8-4.3-4.3 0-3.7 1.2z"/><path transform="translate(4.82 -2.68)" d="M413 240.2l24.5 4.2 4.3 .1 3.7-1.1 1.5-.8-3.6 1.1-4.4-.1-24.5-4.2zM447 242.6l2.6-1.9 2.1-2.5 9.2-16.5 1.8-2.2 1.8-1.1-1.5 .3-1.8 1.1-1.8 2.3-9.2 16.8-2.2 2.6-2.5 1.9zM463 218.7l2.2 .6 2.5 3.2 8.4 18.6 3.7 6.2 2.9 3.4 7.3 6.3 3.3 4.3 2.9 5.4 6.2 14.4 2.5 4.7 1.5 1.7 1.5 .8 1.1 0 1.4-.7 1.5-1.3-1.4 .8-1.1-.1-1.5-.8-1.4-1.7-2.6-4.6-6.2-14.2-2.9-5.3-3.3-4.3-7.3-6.2-2.9-3.3-3.7-6.2-8.4-18.3-2.5-3.1-2.2-.6zM511.9 286.3l2.9-3.7 7.7-14.3 2.6-3.3 2.5-2-1.5 .8-2.6 2.1-2.5 3.3-7.7 14.6-2.9 3.8zM526.1 263.8l3.6-1.2 4.4-.1 24.8 4.3 1.5-.8-24.8-4.3-4.3 0-3.7 1.3z"/><path transform="translate(3.94 -2.19)" d="M413 240.2l24.5 4.2 4.3 .1 3.7-1.2 1.5-.8-3.6 1.2-4.4-.1-24.5-4.2zM447 242.5l2.6-1.9 2.1-2.5 9.2-16.6 1.8-2.3 1.8-1.1-1.5 .4-1.8 1.1-1.8 2.3-9.2 16.9-2.2 2.6-2.5 1.9zM463 218.5l2.2 .6 2.5 3.2 8.4 18.7 3.7 6.3 2.9 3.4 7.3 6.3 3.3 4.3 2.9 5.4 6.2 14.5 2.6 4.7 1.4 1.8 1.5 .8 1.1 0 1.4-.7 1.5-1.2-1.4 .7-1.1 0-1.5-.8-1.4-1.7-2.6-4.7-6.2-14.3-2.9-5.4-3.3-4.2-7.3-6.3-2.9-3.4-3.7-6.2-8.3-18.5-2.6-3.1-2.2-.6zM511.9 286.6l2.9-3.8 7.7-14.5 2.6-3.3 2.5-2-1.5 .9-2.5 2.1-2.6 3.3-7.7 14.6-2.9 3.9zM526.1 263.9l3.7-1.3 4.3-.1 24.8 4.3 1.5-.8-24.8-4.3-4.3 0-3.7 1.3z"/><path transform="translate(3.07 -1.71)" d="M413 240.2l24.5 4.2 4.3 .1 3.7-1.2 1.5-.8-3.7 1.2-4.3-.1-24.5-4.2zM447 242.5l2.6-1.9 2.1-2.6 8.8-16.2 1.8-2.5 1.8-1.4-1.5 .6-1.8 1.3-1.8 2.6-8.8 16.4-2.2 2.6-2.5 1.9zM462.6 218.5l1.5-.1 1.1 .5 2.5 3.2 8.4 18.9 3.7 6.3 2.9 3.4 7.3 6.3 3.3 4.4 2.9 5.4 6.2 14.5 2.5 4.8 2.6 2.4 1.1 .2 1.5-.5 1.5-1.1-1.5 .5-1.1-.2-2.5-2.4-2.6-4.7-6.2-14.4-2.9-5.4-3.3-4.3-7.3-6.3-2.9-3.4-3.7-6.3-8.4-18.6-2.5-3.2-1.1-.5-1.5 0zM511.6 287.1l3.2-4.1 8.1-15.1 2.5-3.2 2.6-1.9-1.5 .9-2.6 1.9-2.5 3.2-8.1 15.2-3.2 4.2zM526.5 263.7l3.6-1.2 4.4 .1 24.4 4.2 1.5-.8-24.4-4.3-4.4 0-3.6 1.1z"/><path transform="translate(2.19 -1.22)" d="M413 240.2l24.5 4.2 4.3 .1 3.7-1.2 1.5-.8-3.6 1.1-4.4 0-24.5-4.2zM447 242.5l2.6-1.9 2.1-2.7 8.8-16.3 1.8-2.5 1.8-1.4-1.5 .6-1.8 1.4-1.8 2.6-8.8 16.4-2.2 2.7-2.5 1.9zM462.6 218.3l1.5 0 1.1 .5 2.5 3.2 8.4 18.9 3.7 6.4 2.9 3.4 7.3 6.4 3.3 4.3 2.9 5.4 6.2 14.6 2.5 4.7 2.6 2.5 1.1 .2 1.5-.5 1.5-1.1-1.5 .6-1.1-.2-2.5-2.5-2.6-4.7-6.2-14.5-2.9-5.4-3.3-4.3-7.3-6.3-2.9-3.4-3.7-6.3-8.3-18.8-2.6-3.2-1.1-.6-1.5 .1zM511.6 287.2l3.2-4.1 8.1-15.2 2.5-3.1 2.6-2-1.5 .9-2.6 1.9-2.5 3.2-8.1 15.3-3.2 4.2zM526.5 263.7l3.6-1.2 4.4 .1 24.4 4.2 1.5-.8-24.4-4.3-4.4 0-3.6 1.1z"/><path transform="translate(1.31 -0.73)" d="M413 240.2l24.5 4.2 4.4 .1 3.6-1.2 1.5-.8-3.6 1.1-4.4 0-24.5-4.2zM447 242.5l2.6-2 2.5-3.1 8.4-15.9 1.8-2.6 1.5-1.2-1.5 .8-1.5 1.2-1.8 2.5-8.4 16-2.5 3.2-2.6 1.9zM462.3 218.5l1.4-.4 1.1 .4 2.6 2.9 8.7 19.5 3.7 6.4 2.9 3.4 7.3 6.4 3.3 4.3 2.9 5.5 6.2 14.5 2.6 4.8 2.5 2.4 1.1 .2 1.5-.5 1.5-.9-1.5 .5-1.1-.2-2.5-2.4-2.6-4.8-6.2-14.5-2.9-5.5-3.3-4.3-7.3-6.4-2.9-3.4-3.7-6.3-8.7-19.5-2.6-2.8-1.1-.4-1.4 .3zM511.6 287.4l3.2-4.2 8.1-15.3 2.5-3.1 2.6-2-1.5 .9-2.6 1.9-2.5 3.2-8.1 15.3-3.2 4.2zM526.5 263.7l3.6-1.2 4.4 .1 24.4 4.2 1.5-.8-24.4-4.3-4.4 0-3.6 1.1z"/><path transform="translate(0.44 -0.24)" d="M413.7 239.8l24.4 4.3 4.4 0 3.6-1.1 .9-.5-3.6 1.1-4.4 0-24.5-4.2zM447 242.5l2.6-2 2.5-3.2 8.4-15.9 1.8-2.5 1.5-1.2-.9 .4-1.5 1.2-1.8 2.6-8.4 15.9-2.5 3.2-2.6 2zM462.9 218.1l2.2-.1 2.5 2.5 2.6 4.7 6.2 14.6 2.9 5.5 3.3 4.3 7.3 6.4 2.9 3.4 3.7 6.3 8.7 19.6 2.6 2.8 1.1 .4 1.4-.3 .9-.5-1.5 .3-1.1-.4-2.5-2.8-8.8-19.6-3.6-6.3-2.9-3.4-7.3-6.4-3.3-4.3-2.9-5.5-6.2-14.5-2.6-4.8-2.5-2.5-2.2 .2zM511.2 287.7l1.5-1.3 1.8-2.5 8.4-15.9 2.5-3.2 2.6-2-.9 .5-2.6 2-2.5 3.2-8.4 15.9-1.8 2.6-1.5 1.2zM527.1 263.3l3.6-1.1 4.4 0 24.5 4.2 .8-.4-24.4-4.3-4.4 0-3.6 1.1z"/></g>
<g text-anchor="middle" font-size="11.5"><text x="413.1" y="312.7">12</text><text x="437.4" y="317.2">8</text><text x="461.7" y="321.6">4</text><text x="486.1" y="326.0">0</text><text x="508.4" y="330.5">-4</text><text x="532.7" y="334.9">-8</text><text x="557.0" y="339.3">-12</text><text x="572.2" y="334.7">0</text><text x="600.2" y="319.1">2</text><text x="628.3" y="303.5">4</text><text x="656.3" y="287.9">6</text></g>
<g text-anchor="middle" font-size="12.3"><text x="466.0" y="336.0">z</text><text x="638.0" y="316.5">ρ</text><text x="383.2" y="200.5" text-anchor="start"><tspan class="s">Φ</tspan>(z,ρ)</text></g>
<g text-anchor="end" font-size="11.5"><text x="407.6" y="267.8">-0.8</text><text x="407.6" y="255.0">-0.4</text><text x="407.6" y="242.2">0</text><text x="407.6" y="229.4">0.4</text><text x="407.6" y="216.7">0.8</text></g>
<!-- f -->
<g fill="none" stroke="#000" stroke-width=".55">
<path d="M722.2 307.8L855.8 331.8L933.0 289.5L799.4 265.5Z"/>
<path d="M744.5 311.8L746.0 311.0M821.7 269.5L820.2 270.3M766.7 315.8L768.2 315.0M843.9 273.5L842.4 274.3M789.0 319.8L790.5 319.0M866.2 277.5L864.7 278.3M811.3 323.8L812.8 323.0M888.5 281.5L887.0 282.3M833.5 327.8L835.0 327.0M910.7 285.5L909.2 286.3M881.5 317.7L878.2 317.1M747.9 293.7L751.3 294.3M907.3 303.6L903.9 303.0M773.7 279.6L777.0 280.2"/>
</g>
<g fill="none" stroke-width=".42">
<path d="M739.4 310.9l13.4-7 13.5-6.4 13.9-6 13.2-5.1 13.4-4.6 12.5-3.7 11.9-2.9 11.1-2M890.1 281.8l.3 1.9-.2 2.1-.8 2.4-1.1 2.3-3.8 5.3-5.9 5.9-7.4 6.2-9.4 6.7-10.8 7-12.4 7.1" stroke="#00c000" stroke-dasharray="2 1"/>
<path d="M756.6 314l11.1-5.5 11.2-4.6 10.1-3.1 8.9-1.7 3.9-.1 2.6 .6 1.2 1-.1 1.7-2.6 3.1-12.3 10.7-1.7 2.1-.1 .9 .2 .3 2 .1 5.5-1.4 25-9.3 7.4-2.3 4.5-.9 3.3-.2 2.4 .3 2 .9 .7 1.3-.3 1.8-1.2 2-2.2 2.4-6.7 5.4-10 6.1" stroke="#0000ff" stroke-dasharray="1 2"/>
<path d="M764.2 315.3l5.6-2.7 5.9-2.1 4.6-.9 2.2 .4 .1 1.1-1.3 1.7-2.8 2.3-3.6 2.2M803.1 322.3l5.7-2.7 5.8-2.1 4.6-.9 2.2 .4 .2 1.1-1.3 1.7-2.9 2.3-3.6 2.2" stroke="#ff00ff" stroke-dasharray=".7 .5"/>
</g>
<g fill="none" stroke="#000" stroke-width=".6">
<path d="M722.5 307.8L722.5 221.4M722.5 279.5L726.0 279.5M722.5 267.5L726.0 267.5M722.5 256.5L726.0 256.5M722.5 244.5L726.0 244.5M722.5 232.5L726.0 232.5M722.5 221.5L726.0 221.5"/>
</g>
<linearGradient id="Pf" gradientUnits="userSpaceOnUse" x1="722.20" y1="242.46" x2="725.16" y2="225.97"><stop offset="0" stop-color="#ecdce6"/><stop offset="0.028" stop-color="#e2cdd9"/><stop offset="0.056" stop-color="#d4b9c6"/><stop offset="0.093" stop-color="#c3a0ac"/><stop offset="0.14" stop-color="#aa8087"/><stop offset="0.186" stop-color="#91625f"/><stop offset="0.233" stop-color="#7a463a"/><stop offset="0.27" stop-color="#642816"/><stop offset="0.311" stop-color="#46050a"/><stop offset="0.362" stop-color="#370050"/><stop offset="0.418" stop-color="#32008c"/><stop offset="0.475" stop-color="#3200be"/><stop offset="0.531" stop-color="#2d00e6"/><stop offset="0.559" stop-color="#2700f0"/><stop offset="0.624" stop-color="#1e00ff"/><stop offset="0.732" stop-color="#0058ff"/><stop offset="0.847" stop-color="#0096ff"/><stop offset="0.89" stop-color="#00cdff"/><stop offset="0.918" stop-color="#00ebff"/><stop offset="0.939" stop-color="#00ffff"/><stop offset="1" stop-color="#00ffff"/></linearGradient>
<g stroke-width=".4" stroke-linejoin="round" fill="url(#Pf)" stroke="url(#Pf)"><path transform="translate(76.4 -41.86)" d="M721.6 224.7l43.8 10.8 23 4.6 23.1 3.7 43.7 4.9 1.4-.8-43.4-4.9-23.4-3.8-23.4-4.6-43.4-10.7z"/><path transform="translate(75.59 -41.42)" d="M721.6 224.7l43.8 10.8 23 4.7 23.1 3.6 43.7 4.9 1.4-.8-43.4-4.9-23.4-3.7-23.4-4.7-43.4-10.7z"/><path transform="translate(74.79 -40.98)" d="M721.6 224.7l43.8 10.9 23 4.6 23.1 3.7 43.7 4.8 1.4-.8-43.8-4.9-23-3.6-23-4.7-43.8-10.8z"/><path transform="translate(73.98 -40.54)" d="M721.6 224.7l43.8 10.9 23 4.7 23.1 3.6 43.7 4.8 1.4-.8-43.7-4.8-23.1-3.7-23-4.6-43.8-10.9z"/><path transform="translate(73.18 -40.1)" d="M721.6 224.7l43.8 11 23 4.6 23.1 3.7 43.7 4.7 1.4-.8-43.8-4.8-23-3.6-23-4.7-43.8-10.9z"/><path transform="translate(72.38 -39.66)" d="M721.6 224.7l43.8 11.1 23 4.6 23.1 3.6 43.7 4.7 1.4-.7-43.8-4.8-23-3.7-23-4.6-43.8-10.9z"/><path transform="translate(71.57 -39.22)" d="M721.6 224.7l43.8 11.1 23 4.6 23.1 3.7 43.7 4.6 1.4-.7-43.7-4.8-23.1-3.6-23-4.6-43.8-11z"/><path transform="translate(70.77 -38.78)" d="M721.6 224.8l43.8 11.1 23 4.6 23.1 3.7 43.7 4.6 1.4-.8-43.8-4.7-23-3.7-23-4.6-43.8-11z"/><path transform="translate(69.96 -38.33)" d="M721.6 224.8l44.1 11.2 22.7 4.6 22.7 3.6 44.1 4.6 1.4-.8-43.7-4.6-23.1-3.7-23-4.6-43.8-11.1z"/><path transform="translate(69.16 -37.89)" d="M721.6 224.8l44.1 11.3 22.7 4.5 22.7 3.6 44.1 4.6 1.4-.8-44.1-4.6-22.7-3.6-22.7-4.6-44.1-11.2z"/><path transform="translate(68.35 -37.45)" d="M721.6 224.8l44.1 11.3 22.7 4.6 22.7 3.6 44.1 4.5 1.4-.8-44.1-4.6-22.7-3.6-22.7-4.5-44.1-11.3z"/><path transform="translate(67.55 -37.01)" d="M721.6 224.8l44.1 11.4 22.7 4.5 22.7 3.7 44.1 4.4 1.4-.8-44.1-4.5-22.7-3.6-22.7-4.6-44.1-11.3z"/><path transform="translate(66.75 -36.57)" d="M721.6 224.8l44.1 11.5 22.7 4.5 22.7 3.6 44.1 4.4 1.4-.8-44.1-4.4-22.7-3.7-22.7-4.5-44.1-11.4z"/><path transform="translate(65.94 -36.13)" d="M721.6 224.8l44.4 11.6 24.4 4.8 21.1 3.3 43.7 4.3 1.4-.8-44.1-4.4-22.7-3.6-22.7-4.5-44.1-11.5z"/><path transform="translate(65.14 -35.69)" d="M721.6 224.8l43.4 11.4 19.4 4 25.7 4.2 45.1 4.4 1.4-.8-44.1-4.3-22.7-3.6-22.7-4.6-44.1-11.5z"/><path transform="translate(64.33 -35.25)" d="M721.6 224.8l43.1 11.4 18.7 3.9 26.7 4.4 45.1 4.3 1.4-.7-43.7-4.3-20.4-3.2-24.7-4.8-44.8-11.7z"/><path transform="translate(63.53 -34.81)" d="M721.6 224.8l43.1 11.5 17.7 3.7 27.4 4.5 45.4 4.3 1.4-.7-45.1-4.4-26-4.3-19.1-3.9-43.4-11.4z"/><path transform="translate(62.73 -34.37)" d="M721.6 224.9l42.8 11.4 17 3.6 28.4 4.7 45.4 4.3 1.4-.8-45.1-4.3-27-4.5-18.4-3.8-43.1-11.4z"/><path transform="translate(61.92 -33.93)" d="M721.6 224.9l42.8 11.5 16.3 3.4 28.8 4.9 45.7 4.2 1.4-.8-45.4-4.3-27.7-4.6-17.4-3.6-43.1-11.5z"/><path transform="translate(61.12 -33.49)" d="M721.6 224.9l42.8 11.5 15.7 3.4 29.4 4.9 45.7 4.2 1.4-.8-45.4-4.2-28.4-4.8-16.7-3.5-43.1-11.5z"/><path transform="translate(60.31 -33.05)" d="M721.6 224.9l42.8 11.6 15 3.2 30.1 5.1 45.7 4.1 1.4-.8-45.8-4.2-28.7-4.8-16.3-3.5-42.8-11.5z"/><path transform="translate(59.51 -32.61)" d="M721.6 224.9l42.8 11.7 14.7 3.1 30.4 5.2 45.7 4 1.4-.8-45.8-4.1-29.3-5-15.7-3.3-42.8-11.6z"/><path transform="translate(58.7 -32.17)" d="M721.6 224.9l46.1 12.6 30.7 5.8 14.4 2 42.4 3.6 1.4-.8-45.7-4-30.1-5.1-15-3.2-42.8-11.7z"/><path transform="translate(57.9 -31.73)" d="M721.6 224.9l46.1 12.7 31.1 5.8 14 2 42.4 3.5 1.4-.8-45.8-3.9-30.7-5.3-14.3-3.1-42.8-11.7z"/><path transform="translate(57.1 -31.28)" d="M721.6 224.9l46.1 12.7 31.4 6 13.7 1.9 25.4 1.7 17 1.7 1.4-.7-42.8-3.6-14-2.1-30.7-5.8-46.1-12.5z"/><path transform="translate(56.29 -30.84)" d="M721.6 224.9l46.1 12.8 32.1 6.1 13 1.8 25.4 1.7 17 1.6 1.4-.7-17-1.7-25.4-1.8-13.7-2-31.4-5.9-46.1-12.6z"/><path transform="translate(55.49 -30.4)" d="M721.6 224.9l46.1 12.9 32.4 6.1 12.7 1.7 25.1 1.7 17.3 1.6 1.4-.7-17-1.7-25.4-1.8-13.4-1.8-31.7-6-46.1-12.7z"/><path transform="translate(54.68 -29.96)" d="M721.6 225l16.7 4.3 29.4 8.6 32.7 6.1 12.4 1.7 25.1 1.6 17.3 1.7 1.4-.8-17.4-1.7-25-1.7-13-1.8-32.1-6-46.1-12.8z"/><path transform="translate(53.88 -29.52)" d="M721.6 225l16.7 4.4 29.4 8.6 33.1 6.2 12 1.6 24.7 1.5 17.7 1.7 1.4-.8-17.4-1.7-25-1.6-12.7-1.7-32.4-6.1-29.4-8.5-16.7-4.4z"/><path transform="translate(53.08 -29.08)" d="M721.6 225l17.7 4.7 24.7 7.4 11.7 2.7 33.4 5.7 29.1 1.8 17 1.7 1.4-.8-17.4-1.7-25-1.5-12.4-1.7-32.7-6.1-29.4-8.6-16.7-4.4z"/><path transform="translate(52.27 -28.64)" d="M721.6 225l18.1 4.8 24.3 7.4 11.4 2.6 33.7 5.8 29.1 1.8 17 1.6 1.4-.8-16.7-1.6-29.4-1.9-33.1-5.7-12-2.7-24.7-7.4-17.7-4.7z"/><path transform="translate(51.47 -28.2)" d="M721.6 225l18.1 4.8 24.3 7.5 11.1 2.5 34 5.9 28.7 1.7 17.4 1.6 1.4-.8-17-1.6-29.1-1.8-33.4-5.8-11.7-2.6-24.7-7.5-17.7-4.7z"/><path transform="translate(50.66 -27.76)" d="M721.6 225l18.1 4.8 24.3 7.6 10.7 2.5 34.4 5.9 28.8 1.6 17.3 1.6 1.4-.8-17-1.6-29.1-1.7-33.7-5.8-11.4-2.6-24.4-7.5-18-4.8z"/><path transform="translate(49.86 -27.32)" d="M721.6 225l18.4 5 24.4 7.6 10 2.3 13.7 2 21 4 28.4 1.5 17.7 1.6 1.4-.8-17.4-1.6-28.7-1.6-34.1-5.9-10.6-2.4-24.8-7.6-18-4.9z"/><path transform="translate(49.05 -26.88)" d="M721.6 225l18.4 5 24.4 7.7 10 2.3 13.7 2 13 2.8 8 1.2 28.4 1.4 17.7 1.6 1.4-.7-17.4-1.6-28.7-1.6-34.4-6-10.3-2.3-24.4-7.6-18.4-4.9z"/><path transform="translate(48.25 -26.44)" d="M721.6 225l18.7 5.1 24.1 7.7 9.7 2.2 14 2 13 2.9 8 1.2 28.1 1.3 18 1.6 1.4-.7-17.7-1.6-28.4-1.5-21-4-13.7-2-10-2.3-24.4-7.7-18.4-4.9z"/><path transform="translate(47.45 -26)" d="M721.6 225l18.7 5.1 24.1 7.8 9.3 2.2 14.4 1.9 13 3 8 1.2 28.1 1.3 18 1.5 1.4-.7-17.7-1.6-28.4-1.4-8-1.2-13-2.9-14.1-2-9.6-2.2-24.4-7.8-18.4-4.9z"/><path transform="translate(46.64 -25.56)" d="M721.6 225.1l19.1 5.2 23.7 7.7 9 2.1 14.7 2 13 3 8 1.3 27.8 1.1 18.3 1.6 1.4-.8-18-1.6-28.1-1.3-8-1.2-13-2.9-14.1-2-9.6-2.2-24.1-7.7-18.7-5.1z"/><path transform="translate(45.84 -25.12)" d="M721.6 225.1l19.1 5.2 23.7 7.8 9 2.1 14.7 1.9 13 3.1 8 1.3 27.7 1 18.4 1.6 1.4-.8-18-1.6-28.1-1.2-8-1.2-13-3-14.4-1.9-9.3-2.2-24.1-7.8-18.7-5.1z"/><path transform="translate(45.03 -24.68)" d="M721.6 225.1l19.4 5.3 23.4 7.8 8.7 2.1 15 1.8 13 3.2 8 1.3 27.4 .9 18.7 1.6 1.4-.8-18.4-1.6-27.7-1.1-8-1.2-13-3.1-14.7-1.9-9-2.1-23.8-7.8-19-5.2z"/><path transform="translate(44.23 -24.23)" d="M721.6 225.1l19.4 5.3 23.4 7.9 8.3 2 15.4 1.8 13 3.3 8 1.3 27.4 .8 18.7 1.6 1.4-.8-18.4-1.6-27.7-1-8-1.2-13-3.2-14.7-1.8-9-2.1-23.8-7.9-19-5.2z"/><path transform="translate(43.43 -23.79)" d="M721.6 225.1l19.4 5.4 23.7 8 8 2 15.7 1.7 12.7 3.3 8 1.3 27.1 .7 19 1.6 1.4-.8-18.7-1.6-27.4-.8-8-1.3-13-3.2-15.1-1.8-8.6-2.1-23.4-7.8-19.4-5.4z"/><path transform="translate(42.62 -23.35)" d="M721.6 225.1l17.1 4.7 24.7 8.4 9 2.3 16 1.7 12.7 3.4 8 1.3 27.1 .7 19 1.5 1.4-.8-18.7-1.5-27.4-.8-8-1.3-13-3.3-15.4-1.8-8.3-2-23.4-7.9-19.4-5.4z"/><path transform="translate(41.82 -22.91)" d="M721.6 225.1l17.4 4.8 24.7 8.6 8.7 2.1 16 1.6 12.7 3.5 8 1.4 26.7 .5 19.4 1.5 1.4-.8-19-1.5-27.1-.7-8-1.3-12.7-3.4-15.7-1.7-8-1.9-23.4-8-19.7-5.5z"/><path transform="translate(41.01 -22.47)" d="M721.6 225.1l17.7 4.9 24.1 8.5 8.7 2.2 16.3 1.5 12.7 3.6 8 1.4 26.8 .4 19.3 1.5 1.4-.8-19-1.5-27.1-.6-8-1.3-12.7-3.5-16-1.6-9-2.3-24.8-8.5-17-4.7z"/><path transform="translate(40.21 -22.03)" d="M721.6 225.1l17.7 5 24.4 8.6 8.4 2.1 16.3 1.4 12.7 3.7 8 1.4 26.4 .3 19.7 1.5 1.4-.7-19.4-1.6-26.7-.5-8-1.3-12.7-3.5-16-1.6-8.7-2.2-24.7-8.5-17.4-4.8z"/><path transform="translate(39.4 -21.59)" d="M721.6 225.1l18.1 5.1 24 8.6 8 2.1 16.7 1.3 12.7 3.8 8 1.5 26.4 .1 19.7 1.5 1.4-.7-19.4-1.6-26.7-.3-8-1.4-12.7-3.6-16.4-1.5-8.3-2.1-24.4-8.6-17.7-4.9z"/><path transform="translate(38.6 -21.15)" d="M721.6 225.1l18.4 5.2 23.7 8.7 8 2.1 16.7 1.1 12.7 4 8 1.4 26.1 0 20 1.5 1.4-.7-19.7-1.5-26.4-.3-8-1.4-12.7-3.8-16.4-1.3-8.3-2.1-24.4-8.7-17.7-4.9z"/><path transform="translate(37.8 -20.71)" d="M721.6 225.1l20.1 5.8 26 9.4 8 1.4 12.7 .5 11.4 3.7 5.7 1.4 7.6 .7 23.4-.3 18.7 1.4 1.4-.7-20-1.5-26.1-.1-8-1.5-12.7-3.9-16.7-1.2-8-2.1-23.7-8.6-18.4-5.1z"/><path transform="translate(36.99 -20.27)" d="M721.6 225.2l20.4 5.8 25.7 9.5 8 1.3 12.7 .4 11.4 3.8 5.7 1.4 7.6 .7 23.1-.4 19 1.5 1.4-.8-20-1.5-26.1 0-8-1.5-12.7-4-11.4-.4-5.3-.7-8-2.1-23.7-8.6-18.4-5.2z"/><path transform="translate(36.19 -19.83)" d="M721.6 225.2l20.7 6 25.4 9.4 8 1.4 12.7 .1 11.7 4.1 5.7 1.4 7.3 .6 22.7-.4 19.4 1.4 1.4-.8-20.4-1.5-25.7 .1-8-1.4-12.7-4.2-11.4-.3-5.6-.7-7.7-2-23.4-8.7-18.7-5.3z"/><path transform="translate(35.38 -19.39)" d="M721.6 225.2l20.7 6 25.4 9.6 8 1.3 12.7 0 11.7 4.2 5.7 1.5 7.3 .6 22.8-.6 19.3 1.4 1.4-.8-20.4-1.5-25.7 .3-8-1.5-12.7-4.3-11.3-.2-5.7-.6-7.7-2.1-23.1-8.7-19-5.4z"/><path transform="translate(34.58 -18.95)" d="M721.6 225.2l21.1 6.1 25 9.6 8 1.3 12.7-.1 11.7 4.4 5.7 1.4 7 .6 22.7-.7 19.7 1.4 1.4-.8-20.7-1.4-25.4 .3-8-1.5-12.7-4.4-11.7-.1-5.7-.6-7.3-2.1-22.7-8.6-19.4-5.6z"/><path transform="translate(33.78 -18.51)" d="M721.6 225.2l20.1 5.8 22 8.8 7 2 6 .6 11.7-.3 12.7 4.8 8 1.6 25.1-.7 21 1.4 1.4-.8-19.4-1.4-22.7 .7-7.3-.6-5.7-1.5-11.7-4.2-12.7 0-8-1.3-25.4-9.7-20.7-6z"/><path transform="translate(32.97 -18.07)" d="M721.6 225.2l20.1 5.8 22.3 9.1 6.7 1.8 6 .6 8.7-.6 3 .2 12.7 4.9 8 1.7 24.7-.9 21.4 1.4 1.4-.8-19.7-1.4-22.7 .8-7-.6-5.7-1.5-11.7-4.4-12.7 .2-8-1.3-25.1-9.6-21-6.2z"/><path transform="translate(32.17 -17.63)" d="M721.6 225.2l21.4 6.3 24.7 9.9 7.7 1.2 10-.7 3 .2 3 .8 8.7 3.9 6 1.7 6.7 .5 22-1.1 20.4 1.3 1.4-.8-21-1.4-25.1 .8-8-1.6-12.7-4.9-3-.2-8.7 .6-6-.6-6.7-1.9-22.4-8.9-20-5.9z"/><path transform="translate(31.36 -17.18)" d="M721.6 225.2l21.7 6.5 24.4 9.9 7.7 1.1 10-.8 3 .1 3 .9 9 4.2 6.1 1.6 6.3 .4 21.7-1.2 20.7 1.3 1.4-.8-20.4-1.3-22 1-6.7-.5-6-1.6-11.7-4.7-3-.2-10 .6-7.7-1.1-24.7-9.9-21.4-6.3z"/><path transform="translate(30.56 -16.74)" d="M721.6 225.2l21.1 6.3 21.3 9 6.4 1.9 6 .5 9-1 3 .1 3 .9 10 4.7 7.7 1.6 24.4-1.3 21.7 1.3 1.4-.8-20.7-1.3-21.7 1.2-6.4-.5-6-1.6-9-4-3-.9-3-.2-10 .8-7.7-1.2-24.7-9.9-21.4-6.4z"/><path transform="translate(29.75 -16.3)" d="M721.6 225.2l22.1 6.6 24 10.2 7.7 1 10-1.1 3 .1 3.4 1.1 8.6 4.2 6.1 1.8 6.3 .4 13-1.3 8.4-.3 21 1.3 1.4-.8-20.7-1.3-8.3 .2-13.4 1.1-6.4-.4-6-1.7-9-4.1-3-.9-3-.2-10 .9-7.7-1.1-24.4-10-21.7-6.5z"/><path transform="translate(28.95 -15.86)" d="M721.6 225.2l22.4 6.8 23.7 10.2 7.7 1 10-1.3 3 .1 3.4 1.1 8.6 4.4 6.4 1.8 6 .3 12.7-1.3 8.3-.3 21.4 1.2 1.4-.7-21-1.3-8.4 .2-13 1.2-6.4-.4-6-1.7-9-4.3-3-.9-3-.2-10 1.1-7.7-1.1-24.1-10-22-6.6z"/><path transform="translate(28.15 -15.42)" d="M721.6 225.2l22.4 6.8 23.7 10.4 7.7 .9 10-1.4 3 .1 3.4 1.1 9 4.6 6 1.8 5.7 .3 12.7-1.4 8.3-.4 21.7 1.2 1.4-.7-21-1.3-8.4 .3-13.4 1.3-6-.4-6-1.8-8.7-4.2-3.3-1.1-3-.2-10 1.2-7.7-1-24.1-10.2-22-6.6z"/><path transform="translate(27.34 -14.98)" d="M721.6 225.2l12.7 3.6 10 3.4 23.4 10.4 7.4 .9 10.3-1.6 3 .1 3.4 1.2 9 4.7 6 1.8 5.7 .3 12.7-1.6 8.3-.4 21.7 1.2 1.4-.7-21.4-1.3-8.3 .3-13 1.5-5.7-.4-6-1.7-9.1-4.5-3.3-1.1-3-.2-10 1.4-7.7-1-23.7-10.2-22.4-6.8z"/><path transform="translate(26.54 -14.54)" d="M721.6 225.2l22.1 6.8 8.3 3.4 12.4 6.2 5.6 1.7 6.1 .3 9-1.6 3.3 0 3.4 1.2 10 5.2 7.3 1.8 23.4-2.1 10 .1 12.7 1 1.4-.7-12.4-1-10-.3-23.7 1.9-7.3-1.7-10.4-5.2-3-.9-3.3-.1-9.1 1.4-6-.4-5.6-1.7-12.7-6.1-8.4-3.4-21.7-6.5z"/><path transform="translate(25.73 -14.1)" d="M721.6 225.3l12.7 3.5 10.4 3.6 23 10.6 3.7 .7 3.7 .1 10-1.8 3.3 .1 3.4 1.1 9.3 5.1 6 1.9 5.4 .2 12-1.8 8.3-.5 10.1 .2 12.3 1 1.4-.8-12.7-1-10-.2-23.4 2-7.3-1.7-10.4-5.3-3-1-3.3-.1-9.1 1.5-6-.3-5.6-1.7-12.4-6.1-8.3-3.4-22.1-6.7z"/><path transform="translate(24.93 -13.66)" d="M721.6 225.3l12.7 3.5 10.4 3.6 23 10.8 3.4 .7 3.6 .1 10.4-1.9 3.3 0 3.4 1.2 9.3 5.2 6 1.9 5.4 .2 12-1.9 8-.6 10 .2 12.7 1 1.4-.8-12.4-1-10-.2-8 .5-12.3 1.7-5.4-.2-6-1.8-9.4-5-3.3-1.2-3.3 0-10.1 1.6-3.6-.1-3.7-.7-23.4-10.6-10-3.4-12.7-3.6z"/><path transform="translate(24.13 -13.22)" d="M721.6 225.3l13 3.7 10.4 3.6 22.7 10.9 3.3 .6 3.7 .1 10.4-2.1 3.3 0 3.4 1.2 9.3 5.3 6 2 5 .2 12.1-2 8.3-.7 10 .2 12.7 1 1.4-.8-12.4-1-10-.2-8.3 .6-12.1 1.8-5.3-.2-6-1.9-9.4-5.1-3.3-1.2-3.3 0-10.1 1.8-3.6-.1-3.7-.7-23.1-10.7-10.3-3.5-12.7-3.6z"/><path transform="translate(23.32 -12.78)" d="M721.6 225.3l13.4 3.8 10.3 3.6 22.4 11 3.4 .6 3.6 0 10.4-2.1 3.3 0 3.4 1.2 9.6 5.6 5.7 1.9 5 .1 11.7-2.1 8.4-.7 10.3 .1 12.7 1 1.4-.8-12.7-1-10-.1-8 .5-12.4 2-5-.2-6-1.9-9.4-5.3-3.3-1.2-3.3 0-10.4 2-3.7-.1-3.3-.7-22.7-10.7-10.4-3.6-13-3.7z"/><path transform="translate(22.52 -12.34)" d="M721.6 225.3l13.4 3.8 10.3 3.7 7 3.1 11.4 6.3 4 1.7 3 .6 3.7 0 10.7-2.3 3.3 0 3.4 1.2 10 5.9 5.7 1.9 4.6 0 11.7-2.2 8-.8 10.4 .1 13 1 1.4-.8-12.7-1-10-.1-8.4 .7-12 2-5-.1-5.7-1.9-9.7-5.5-3.3-1.2-3.3 0-10.4 2-3.7 0-3.3-.6-22.7-11-10.4-3.6-13-3.7z"/><path transform="translate(21.71 -11.9)" d="M721.6 225.3l13 3.7 10.4 3.7 8.4 3.8 11.3 6.4 4.7 1.7 5.7 .1 10-2.4 3.3 0 3.4 1.2 10.7 6.3 3.6 1.3 3 .5 4-.3 11.4-2.4 6.7-.6 10.7 0 13.3 1 1.4-.8-12.7-1-10.3-.1-8.4 .8-11.7 2.1-5-.1-5.7-2-9.7-5.6-3.3-1.2-3.3 0-10.7 2.3-3.4-.1-3.3-.6-22.4-11-10.3-3.7-13.4-3.8z"/><path transform="translate(20.91 -11.46)" d="M721.6 225.3l13.4 3.8 10.7 3.9 7 3.2 11 6.4 4 1.8 3 .6 3.4-.1 11-2.5 3.3 0 3.4 1.2 10.3 6.2 5.4 1.9 4.6 0 11.4-2.5 8-.9 10.4 0 13.3 1 1.4-.8-13.4-1-10.3 0-7 .6-11.4 2.3-4 .3-3-.5-3.7-1.3-10.7-6.2-3.3-1.2-3.3 0-10.1 2.3-5.6-.2-4.7-1.6-11.7-6.5-8-3.6-10.4-3.7-13-3.7z"/><path transform="translate(20.1 -11.02)" d="M721.6 225.3l13.7 3.9 10.7 3.9 7 3.3 11 6.6 3.7 1.7 3 .5 3 0 11.4-2.7 3.3-.1 3.7 1.5 10 6.1 5.4 1.9 4.3 .1 11.4-2.7 8-1 10.3 0 13.7 1 1.4-.8-13.4-1-10.3 0-8 .8-11.4 2.5-4.7-.1-5.6-2-10.1-5.9-3.3-1.3-3.3 .1-11.1 2.4-3.3 .1-3-.6-4-1.8-11-6.3-7-3.2-10.7-3.9-13.4-3.8z"/><path transform="translate(19.3 -10.58)" d="M721.6 225.3l13.7 3.9 10.4 3.8 8.3 4.1 11 6.7 4.4 1.5 5 0 10.3-2.7 3.7-.1 3.7 1.4 11 6.8 3.4 1.2 2.6 .5 3.7-.4 10.7-2.7 7-.9 10.7-.1 14 1 1.4-.8-13.4-.9-10.3-.1-8 .9-11.7 2.6-4.4 0-5.3-1.9-10.4-6.2-3.3-1.3-3.3 .1-11.1 2.5-3.3 .1-3-.6-4-1.8-11-6.4-6.7-3.2-10.7-3.8-13.7-4z"/><path transform="translate(18.5 -10.13)" d="M721.6 225.3l13.7 3.9 10.7 4 8 3.9 11 6.9 4.4 1.6 4.7-.1 10.6-2.8 3.7-.1 3.7 1.4 11.3 7 3.1 1.2 2.6 .4 3.7-.4 10.7-2.9 7-.9 10.7-.1 14 1 1.4-.8-13.7-1-10.3 .1-8.1 .9-11.3 2.8-4.4-.1-5.3-1.9-10-6.2-3.7-1.4-3.3 0-11.4 2.8-3 0-3-.5-3.7-1.7-11-6.6-7-3.3-10.7-3.9-13.7-4z"/><path transform="translate(17.69 -9.69)" d="M721.6 225.3l14.4 4.2 10.7 4 7 3.5 10.3 6.7 3.7 1.7 2.7 .6 3-.2 11.3-3 3.7-.1 3.7 1.4 11 7 4.7 1.7 4-.2 10.7-3 8-1.1 10.7-.2 14 1 1.4-.8-14-1-10.7 .2-7 .8-10.7 2.8-3.7 .4-2.7-.5-3.3-1.3-11-6.7-3.7-1.4-3.7 .1-10.3 2.7-5 0-4.4-1.5-11-6.8-8.3-4.1-10.4-3.7-13.7-4z"/><path transform="translate(16.89 -9.25)" d="M721.6 225.3l14.4 4.2 10.7 4 7 3.5 10.7 7.1 3.3 1.6 2.7 .5 2.7-.1 11.6-3.2 3.7-.1 3.7 1.4 11 7.1 4.7 1.7 3.7 0 11-3.3 8-1.2 10.7-.2 14 1 1.4-.8-13.7-.9-10.7 .1-8 1-11 3-4.4 0-4.6-1.7-10.7-6.7-3.7-1.4-3.7 .1-11.3 2.9-3 .1-2.7-.5-3.7-1.8-10.7-6.7-7-3.4-10.7-4-14-4.1z"/><path transform="translate(16.08 -8.81)" d="M721.6 225.3l14.4 4.2 11 4.2 7 3.6 10.4 7 3.3 1.7 2.4 .5 2.6-.1 11.7-3.3 4-.2 4 1.6 11.1 7.1 4.3 1.7 3.7-.1 10.7-3.4 8-1.3 10.7-.2 14.3 1 1.4-.8-14-.9-10.7 .1-8 1.2-10.7 3.1-4 .1-4.7-1.7-11-7-3.7-1.4-3.7 .1-11.7 3.1-2.6 .1-2.7-.5-3.7-1.8-10.3-6.8-7-3.5-10.7-4-14.4-4.2z"/><path transform="translate(15.28 -8.37)" d="M721.6 225.3l14.7 4.3 11 4.3 7.1 3.7 10 6.9 3.3 1.8 2.4 .4 2.6-.1 11.7-3.4 4-.1 4 1.6 11.4 7.3 4 1.6 3.7-.2 10.3-3.4 8-1.4 11.1-.3 14.3 1 1.4-.8-14.4-.9-10.6 .2-8.1 1.2-10.7 3.3-3.6 0-4.4-1.6-11-7-4-1.6-3.7 .1-11.7 3.2-2.6 .1-2.7-.5-3.3-1.6-10.4-6.9-7-3.6-11-4.2-14.4-4.2z"/><path transform="translate(14.48 -7.93)" d="M721.6 225.3l14.7 4.3 11 4.3 7.4 3.9 9.7 7 3.3 1.8 2.3 .4 2.4-.1 12-3.6 4-.1 3.7 1.4 11 7.3 4.7 2 3.7-.2 10.3-3.7 8-1.4 10.7-.3 14.7 1 1.4-.7-14.4-1-10.7 .2-8 1.3-10.7 3.4-3.6 .1-4.4-1.7-11-7.1-4-1.6-4 .2-11.7 3.3-2.7 .1-2.3-.5-3.3-1.7-10.4-7-7-3.7-11-4.2-14.4-4.1z"/><path transform="translate(13.67 -7.49)" d="M721.6 225.3l15.1 4.4 11 4.4 7 3.8 10 7.3 3 1.6 4.4 .3 12-3.6 4.3-.2 3.7 1.4 11.4 7.6 4.3 1.9 3.3-.2 10.4-3.8 8-1.5 11-.4 14.7 1 1.4-.7-14.4-1-11 .2-8 1.4-10.3 3.6-3.7 .1-4-1.6-11.4-7.4-4-1.6-4 .2-12 3.4-4.7-.3-3.3-1.8-10.1-7-7-3.7-11-4.2-14.7-4.3z"/><path transform="translate(12.87 -7.05)" d="M721.6 225.3l15 4.4 11.1 4.4 7 3.9 10 7.5 3.3 1.7 4.1 .2 12-3.8 4.3-.2 4 1.6 11.4 7.7 4 1.7 3.3-.1 10.4-4 8-1.6 11-.3 14.7 .9 1.4-.7-14.7-1-10.7 .3-8 1.4-10.4 3.7-3.6 .2-4.4-1.8-11.3-7.5-3.7-1.4-4.3 .2-11.7 3.5-2.4 .1-2.3-.4-3-1.6-10-7.2-7.4-4-11-4.2-14.7-4.3z"/><path transform="translate(12.06 -6.61)" d="M721.6 225.3l15.4 4.6 11 4.4 7 3.9 10 7.7 3 1.6 3.7 .2 12-3.9 4.7-.2 4 1.5 11.7 8 3.7 1.6 3.3-.2 10.1-4.1 8-1.6 11-.4 15 .9 1.4-.7-14.7-1-11 .3-8 1.6-10.4 3.8-3.3 .2-4.4-1.9-11.3-7.6-3.7-1.4-4.3 .2-12.1 3.7-4.3-.3-3-1.7-10-7.3-7-3.9-11.1-4.3-15-4.4z"/><path transform="translate(11.26 -6.17)" d="M721.6 225.3l15.4 4.6 11 4.4 7.4 4.2 9.6 7.7 3 1.6 3.7 .1 11.7-3.8 5-.4 4.4 1.8 11.7 8 3.6 1.6 3.4-.4 10.7-4.5 6.6-1.4 11.1-.4 15.3 .9 1.4-.7-14.7-1-11 .4-8 1.5-10.4 4.1-3.3 .2-4-1.8-11.4-7.7-4-1.6-4.7 .3-11.7 3.7-4-.1-3-1.6-10.3-7.8-7-3.9-11.1-4.3-15-4.4z"/><path transform="translate(10.45 -5.73)" d="M721.6 225.3l15.4 4.6 11.3 4.6 7.1 4.1 9.6 7.8 3.1 1.7 3.3 .1 12-4 5-.3 4.7 1.9 11.4 7.9 3.6 1.7 3.4-.5 10.3-4.6 7-1.5 11.1-.4 15.3 .9 1.4-.7-15-1-11 .4-7.1 1.4-10.6 4.4-3.4 .3-4-1.7-11.7-8-4-1.5-4.7 .2-12 3.9-3.7-.1-3-1.7-10-7.7-7-4-11-4.4-15.4-4.5z"/><path transform="translate(9.65 -5.29)" d="M721.6 225.3l15.4 4.6 11.3 4.6 7.4 4.4 9.7 8 2.6 1.5 3.7 0 12-4.2 4.7-.2 4.7 1.9 11.7 8.3 3.3 1.5 3-.4 10.4-4.8 7-1.6 11.4-.5 15.3 .9 1.4-.7-15.4-1-11 .5-7 1.4-10.3 4.5-3.4 .4-3.7-1.6-11.7-8.1-4.3-1.7-5 .3-12 4-3.4-.1-3-1.7-9.7-7.7-7.3-4.2-11-4.5-15.4-4.5z"/><path transform="translate(8.85 -4.85)" d="M721.6 225.3l15.7 4.7 11.4 4.7 7.3 4.4 9.4 8 2.6 1.6 3.4 0 12.3-4.4 4.7-.2 5 2.1 11.7 8.4 3 1.4 3-.5 10.4-5 7-1.6 11-.5 15.7 .9 1.4-.7-15.4-1-11 .5-7 1.5-10.4 4.6-3.3 .5-3.3-1.4-11.7-8.3-4.7-1.9-2.3-.1-3 .5-11.7 4-3.4 0-3-1.8-9.3-7.6-7.4-4.4-11.3-4.6-15.4-4.5z"/><path transform="translate(8.04 -4.41)" d="M721.6 225.3l16.1 4.8 11.3 4.8 7.4 4.5 9 7.9 2.6 1.8 3.4-.2 12-4.4 5-.2 5.4 2.2 11.7 8.6 2.6 1.2 3-.5 10.1-5.1 7-1.7 11.3-.6 15.7 .9 1.4-.7-15.4-1-11.3 .6-7 1.6-10.4 4.8-3 .4-3.3-1.5-11.4-8.1-5-2.1-4.7 .2-12 4.2-3.7 .1-2.6-1.6-9.7-8.1-7-4.2-11.4-4.6-15.7-4.7z"/><path transform="translate(7.24 -3.97)" d="M721.6 225.3l16.1 4.8 11.3 4.8 7.4 4.6 9.3 8.3 2.3 1.6 3.1-.1 12-4.6 5.3-.3 5.7 2.4 11.4 8.5 2.6 1.3 2.7-.4 10-5.3 7-1.8 11.4-.7 16 .9 1.4-.7-15.7-1-11.4 .6-7 1.7-10 5-3 .4-3-1.4-11.4-8.2-5.3-2.3-5 .3-12 4.3-3.4 .1-2.6-1.7-9.4-8-7.3-4.5-11.4-4.6-15.7-4.7z"/><path transform="translate(6.43 -3.53)" d="M721.6 225.3l16.4 5 11.3 4.8 7.4 4.7 9.3 8.6 2.1 1.3 2.6-.1 11.7-4.6 3.4-.6 2.6 .1 3 1 3.4 1.8 11 8.4 2.3 1.3 2.4-.4 10-5.5 7.3-2 11.4-.7 16 .9 1.4-.7-15.7-1-11.3 .6-7.1 1.8-10.3 5.2-2.7 .4-2.7-1.2-11.3-8.4-5.7-2.4-5.3 .3-12.1 4.4-3 .1-2.3-1.5-9.4-8.2-7.3-4.6-11.4-4.7-16-4.8z"/><path transform="translate(5.63 -3.08)" d="M721.6 225.3l16.4 5 11.3 4.8 7.4 4.7 9.7 9.1 2.3 1.3 2-.4 11-4.6 3.7-.7 3 .1 3 1 3.4 1.8 11.7 9 2.3 1 1.7-.6 9.3-5.4 7.4-2.2 11.7-.8 16.3 .9 1.4-.7-16-1-11.4 .7-7 1.8-10 5.4-2.7 .5-2.3-1.2-11.4-8.5-3.3-1.8-2.7-.8-2.7-.2-3 .5-11.7 4.6-3 .1-2.3-1.6-9-8.1-7.7-4.9-11.4-4.7-16-4.8z"/><path transform="translate(4.83 -2.64)" d="M721.6 225.3l16.4 5 11.7 5 7.7 5.1 10.6 10 2-.1 7.1-3.3 4.6-1.7 3.7-.7 3 .2 3.4 1 3.6 2.1 11.4 9 1.7 .8 1.6-.5 9.4-5.7 7.7-2.3 11.6-.8 16.4 .9 1.4-.7-16.4-1-11.3 .8-7 1.9-10.1 5.6-2.3 .4-2-1-11.4-8.7-3.3-1.8-3-1-2.7-.2-3.3 .6-11.7 4.7-2.7 .1-11-9.7-7.7-5-11.3-4.8-16.4-4.9z"/><path transform="translate(4.02 -2.2)" d="M721.6 225.3l16.7 5.1 11.7 5.1 7.7 5.2 10.7 10.2 1.3-.2 10.7-4.9 3.7-.9 3.3-.2 3.7 1 4.3 2.3 12.4 9.9 1.7-.1 3.3-2.2 1.4-.9-3.4 1.9-1.6-.1-12.7-9.6-4-2.2-3.4-.9-3 .1-3.3 .7-11 4.7-2 .2-2-1.3-9.4-8.9-7.3-4.8-11.7-5-16.4-4.9zM814.2 254.7l3-2-1.4 .9-3 2zM815.8 253.6l6.7-3.2 8-1.7 10.4-.3 14.3 .9 1.4-.7-14.4-.9-10.3 .3-8 1.6-6.7 3.1z"/><path transform="translate(3.22 -1.76)" d="M721.6 225.3l16.7 5.1 11.7 5.1 8 5.5 10.4 10.2 1.3-.2 6-3.3 4.4-1.8 4-.9 3.6-.1 4.1 1.1 4.3 2.5 11.7 9.7 1.3 .1 2-1.4 1.4-1-2 1.1-1.3-.1-12.1-9.5-4-2.3-3.6-1.1-3.4 0-3.6 .7-11.1 4.9-1.6 .3-1.7-1.2-9.4-9.1-7.6-5.1-11.7-5-16.4-4.9zM812.5 255.9l5.7-3.7-1.4 .8-5.7 3.9zM816.8 253l6.4-2.8 8-1.5 10.3-.3 13.7 .9 1.4-.7-13.7-.9-10.3 .2-7.7 1.4-6.7 2.9z"/><path transform="translate(2.41 -1.32)" d="M721.6 225.3l17.1 5.2 11.6 5.2 8.1 5.6 10 10.2 11.7-5.5 4.3-1 3.7 0 4 1.3 4.7 2.7 4.6 3.6 6.4 5.8 1 .3 1.3-.8 1.4-1.1-1.3 .6-1-.2-11.7-9.5-4.4-2.5-3.6-1.1-3.4 0-4 .8-4.3 1.7-6.7 3.4-1.3 .2-10.7-10.2-7.7-5.3-11.7-5.1-16.7-5zM811.5 256.8l7-4.7-1.4 .8-7 5zM817.1 252.9l6.4-2.8 7.7-1.4 10.3-.3 13.7 .9 1.4-.7-13.7-.9-10.3 .2-7.7 1.4-6.4 2.8z"/><path transform="translate(1.61 -0.88)" d="M721.6 225.3l17.1 5.2 11.6 5.2 8.1 5.6 10 10.4 11.3-5.6 4.4-1 4 0 4.3 1.4 4.7 2.7 5 4 5.7 5.4 1 .3 1-.6 1.4-1.1-1 .5-1-.2-11.4-9.5-4.3-2.5-4-1.3-3.7 0-4.3 1-4.7 1.9-6 3.3-1 .1-10.4-10.2-7.7-5.4-11.7-5.1-17-5.2zM811.2 257.2l7.7-5.3-1.4 .8-7.7 5.6zM817.5 252.7l6.3-2.7 7.7-1.3 10-.3 13.7 .9 1.4-.7-13.7-.9-10 .2-7.7 1.3-6.3 2.7z"/><path transform="translate(0.8 -0.44)" d="M721.6 225.3l16.7 5.1 11.4 4.9 4.7 2.9 4 3.1 9.3 10.1 1 .4 1-.4 1.4-1-1 .4-1-.4-9.4-9.8-4-3.2-4.6-2.8-11.4-5-16.7-5zM771.1 250.4l2.7-1.6-1.4 .8-2.7 1.8zM772.4 249.6l5-2.6 4.3-1.4 4.1-.5 3.6 .4 3.4 1.2 3.6 2.1 5.4 4.1 6 5.8 .7 .3 1-.4 1.4-.9-1.7 0-6.7-6.2-5-3.7-3.7-2.1-3.3-1.2-3.4-.3-4 .5-4.3 1.5-5 2.6zM810.9 257.7l8.3-6-1.4 .8-8.3 6.1zM817.8 252.5l6.4-2.6 7.6-1.3 10.1-.1 13.3 .8 1.4-.7-13.4-.9-10 .2-7.7 1.3-6.3 2.5z"/><path transform="translate(0 -0)" d="M722.2 225l16.7 5.1 11.7 5.1 4.7 2.9 4 3.2 9 9.8 .7 .4 1-.2 .8-.5-1 .2-.7-.4-9-9.7-4-3.2-4.7-3-11.7-5.1-16.7-5zM770.8 250.8l4-2.6-.8 .5-4 2.6zM774 248.7l4.6-2.3 4.4-1.3 3.7-.3 3.6 .5 3.4 1.3 4 2.4 5 3.9 5.7 5.5 1.3 .1 .8-.5-1.3-.1-5.7-5.5-5-3.9-4-2.4-3.4-1.3-3.6-.6-3.7 .4-4.3 1.4-4.7 2.2zM810.5 258l8.7-6.3-.8 .5-8.7 6.3zM818.4 252.2l6.3-2.6 7.7-1.3 10-.2 13.4 .9 .8-.4-13.4-.9-10 .2-7.7 1.3-6.3 2.5z"/></g>
<g text-anchor="middle" font-size="10.2"><text x="721.7" y="316.8">12</text><text x="744.0" y="320.8">8</text><text x="766.2" y="324.8">4</text><text x="788.5" y="328.8">0</text><text x="808.8" y="332.8">-4</text><text x="831.0" y="336.8">-8</text><text x="853.3" y="340.8">-12</text><text x="867.8" y="337.9">0</text><text x="893.5" y="323.8">2</text><text x="919.3" y="309.7">4</text><text x="945.0" y="295.6">6</text></g>
<g text-anchor="middle" font-size="10.8"><text x="769.7" y="338.6">z</text><text x="928.4" y="321.0">ρ</text><text x="695.8" y="211.5" text-anchor="start">f(z,ρ)</text></g>
<g text-anchor="end" font-size="10.2"><text x="715.7" y="281.3">0</text><text x="715.7" y="269.7">0.2</text><text x="715.7" y="258.2">0.4</text><text x="715.7" y="246.6">0.6</text><text x="715.7" y="235.1">0.8</text><text x="715.7" y="223.6">1</text></g>
<!-- g -->
<g fill="none" stroke="#000" stroke-width=".55">
<path d="M63.1 479.4L223.3 510.7L315.2 457.5L155.0 426.2Z"/>
<path d="M70.2 480.8L71.6 479.9M162.1 427.6L160.6 428.4M88.4 484.3L89.9 483.5M180.3 431.1L178.8 432.0M106.7 487.9L108.2 487.1M198.6 434.7L197.1 435.6M125.0 491.5L126.4 490.6M216.9 438.3L215.4 439.1M143.2 495.0L144.7 494.2M235.1 441.8L233.7 442.7M161.5 498.6L163.0 497.8M253.4 445.4L251.9 446.3M179.8 502.2L181.2 501.3M271.7 449.0L270.2 449.8M198.0 505.8L199.5 504.9M289.9 452.6L288.5 453.4M216.3 509.3L217.8 508.5M308.2 456.1L306.7 457.0M253.9 493.0L250.6 492.3M93.8 461.7L97.1 462.3M284.6 475.2L281.2 474.6M124.4 443.9L127.8 444.6"/>
</g>
<g fill="none" stroke-width=".42">
<path d="M110.5 488.7l6-4.2 1.6-1.8 .1-1.1-1.1-.4-1 .1-3.1 .7-5.2 2-5.8 3M147.5 495.9l6.1-4.3 1.6-2-.1-.9-2.4-.1-3.3 .8-5.5 2.2-4.9 2.6M184.4 503.1l6-4.2 1.5-1.5 .3-1.2-.4-.3-1.5-.2-3.4 .8-5.1 1.9-5.9 3" stroke="#00c000" stroke-dasharray="2 1"/>
<path d="M112.7 489.1l5.1-3.2 4.2-3.3 2.1-2.3 .4-.8 0-1-.9-.5-1.5-.2-5.9 1.3-8 3.2-8.4 4.3M149.7 496.3l5-3.2 4.3-3.3 2.3-2.6 .2-1-.1-.6-1-.5-1.7 0-6 1.4-7.6 3-8.3 4.3M186.6 503.5l5.1-3.1 4.2-3.4 2.4-2.8 .1-.8-.3-.7-1.1-.4-1.8 .1-6.4 1.6-7.6 3.1-7.5 3.9" stroke="#0000ff" stroke-dasharray="1 2"/>
<path d="M115.2 489.6l7.1-4.6 6-4.7 1.9-2 1-1.6 .2-1.2-.4-.8-1.6-.6-2.9 .2-8.1 2-10.2 4.2-10.8 5.6M152.1 496.8l7.2-4.5 5.5-4.3 3.2-3.7 .4-1.3-.2-.9-1.4-.7-2.6 0-3.9 .7-4.3 1.2-10.9 4.4-10.8 5.6M189.1 504l7.8-5 5.3-4.3 2.8-3.4 .3-1.2-.3-.8-1.5-.7-2.8 .1-7.8 1.9-10.8 4.3-10.8 5.6" stroke="#ff00ff" stroke-dasharray=".7 .5"/>
</g>
<g fill="none" stroke="#000" stroke-width=".6">
<path d="M63.5 479.4L63.5 375.7M63.5 444.5L67.0 444.5M63.5 410.5L67.0 410.5M63.5 375.5L67.0 375.5"/>
</g>
<linearGradient id="Pg" gradientUnits="userSpaceOnUse" x1="63.15" y1="444.60" x2="76.12" y2="378.23"><stop offset="0" stop-color="#ecdce6"/><stop offset="0.03" stop-color="#e2cdd9"/><stop offset="0.06" stop-color="#d4b9c6"/><stop offset="0.1" stop-color="#c3a0ac"/><stop offset="0.15" stop-color="#aa8087"/><stop offset="0.2" stop-color="#91625f"/><stop offset="0.25" stop-color="#7a463a"/><stop offset="0.29" stop-color="#642816"/><stop offset="0.334" stop-color="#46050a"/><stop offset="0.388" stop-color="#370050"/><stop offset="0.448" stop-color="#32008c"/><stop offset="0.51" stop-color="#3200be"/><stop offset="0.57" stop-color="#2d00e6"/><stop offset="0.645" stop-color="#1e00ff"/><stop offset="0.72" stop-color="#0058ff"/><stop offset="0.8" stop-color="#0096ff"/><stop offset="0.86" stop-color="#00cdff"/><stop offset="0.9" stop-color="#00ebff"/><stop offset="0.93" stop-color="#00ffff"/><stop offset="1" stop-color="#00ffff"/></linearGradient>
<g stroke-width=".6" stroke-linejoin="round" fill="url(#Pg)" stroke="url(#Pg)"><path d="M139 400.6l80.1 15.3 80.1 16 16-9.3-160.2-31.3z" fill="#ebdae4" stroke="#ebdae4"/><path d="M123.7 409.4l80.1 15.1 80.1 16.2 16-9.2-80.1-16-80.1-15.3z" fill="#ead9e4" stroke="#ead9e4"/><path transform="translate(61.27 -35.47)" d="M60.5 446l80.1 15.1 80.1 16.2 2.6-1.5-80.1-16.2-80.1-15.1z"/><path transform="translate(59.35 -34.36)" d="M60.5 446l80.1 15 80.1 16.3 2.6-1.5-80.1-16.2-80-15.1z"/><path transform="translate(57.44 -33.25)" d="M60.5 446l80.1 15 80.1 16.3 2.6-1.5-80.1-16.3-80.1-15z"/><path transform="translate(55.52 -32.14)" d="M60.5 446l80.1 14.9 80.1 16.4 2.6-1.5-80.1-16.3-80-15z"/><path transform="translate(53.61 -31.03)" d="M60.5 446l80.1 14.9 80.1 16.4 2.6-1.5-80.1-16.4-80.1-14.9z"/><path transform="translate(51.69 -29.92)" d="M60.5 446l80.1 14.8 80.1 16.5 2.6-1.5-80.1-16.4-80-14.9z"/><path transform="translate(49.78 -28.82)" d="M60.5 446l80.1 14.8 80.1 16.5 2.6-1.5-80.1-16.4-80.1-14.9z"/><path transform="translate(47.86 -27.71)" d="M60.6 446l42.4 7.4 37.6 7.3 37.7 7.4 42.4 9.2 2.6-1.5-80.1-16.5-80-14.8z"/><path transform="translate(45.95 -26.6)" d="M60.5 446l42.9 7.4 19.2 4 18 3.1 18 3.9 19.3 3.5 42.8 9.4 2.6-1.5-42.4-9.1-37.7-7.5-37.6-7.2-42.5-7.5z"/><path transform="translate(44.04 -25.49)" d="M60.5 446l25.3 4.5 17.6 2.6 19.2 4.2 18 3 18 4.1 19.3 3.3 17.6 4.3 25.2 5.3 2.6-1.5-42.8-9.3-37.3-7.4-37.2-7.2-42.9-7.4z"/><path transform="translate(42.12 -24.38)" d="M60.5 446l28.5 5 14.4 1.8 18.8 4.4 18.4 2.8 18.4 4.4 18.9 3 14.4 3.8 28.4 6.1 2.6-1.5-42.8-9.5-19.3-3.4-18-4-18-3.1-19.2-4.1-42.8-7.2z"/><path transform="translate(40.21 -23.27)" d="M60.5 446l30.1 5.3 12.8 1.1 11.2 3.2 12.8 2.5 13.2 1.4 13.2 3.8 12.8 2.5 11.3 1.1 12.8 3.9 30 6.5 2.6-1.5-27.2-5.8-15.6-4-19.3-3.1-18-4.3-18-2.8-19.2-4.3-15.6-2.2-27.3-4.8z"/><path transform="translate(38.29 -22.17)" d="M60.5 446l30.5 5.3 12.8 .5 10.4 3.6 13.2 2.7 13.2 .8 13.2 4.4 13.2 2.5 10.5 .4 12.8 4.5 30.4 6.6 2.6-1.5-29.6-6.4-13.2-3.8-10-1.1-8.9-1.6-8.8-1.9-9.6-2.8-9.6-1-8.8-1.5-18.8-4.6-13.2-1.4-29.6-5.2z"/><path transform="translate(36.38 -21.06)" d="M60.5 446l30.9 5.3 4 .2 6-.8 2.4 .2 10.4 4.4 13.6 2.8 4.4 .3 8.4-.5 8.4 3.8 4.4 1.4 13.6 2.5 10.5-.4 12.4 5.3 30.8 6.8 2.6-1.5-30.4-6.6-12.8-4.2-10.5-.7-13.2-2.5-13.2-4.2-13.2-1-13.2-2.6-10.4-3.4-12.8-.8-30.5-5.3z"/><path transform="translate(34.46 -19.95)" d="M60.5 446l29.3 5 4 .3 3.6-.6 2.6-.8-8.4-.4-28.4-5zM100 449.9l5.6-.3-2.6-.2-5.6 1.3zM103 449.4l2.8 .9 6.8 4.2 4 1.4 12 2.2 3.2 .1 2.8-.6 2.6-.7-6-.2-12-2.2-13.6-4.9zM137.2 456.9l5.2-.2-2.6-.2-5.2 1.1zM139.8 456.5l2.4 .6 6.8 4.3 4.4 1.7 12 2.3 3.2 .1 2.9-.5 2.6-.8-6-.2-12.1-2.4-13.6-4.9zM174.1 464.2l5.2-.2-2.6-.2-5.2 1.2zM176.7 463.8l2.8 .8 6 4 4.4 1.8 30.8 6.9 2.6-1.5-30.4-6.7-4.4-1.4-6.4-3-2.8-.7z"/><path transform="translate(32.55 -18.84)" d="M60.5 446l28.1 4.8 4 .3 3.2-.5 2.6-.9-8-.5-27.3-4.7zM98.4 449.7l5.6-1.2 2.8 .1-2.6-.8-2.8 .1-5.6 2.7zM104.2 447.8l2 1.1 5.6 4.8 3.6 1.7 12 2.5 3.2 .1 2.4-.5 2.6-.8-5.6-.2-12-2.4-3.6-1.4-7.6-4.1zM135.6 456.7l5.2-1.1 2.8 .1-2.6-.8-2.8 .1-5.2 2.5zM141 454.9l2.4 1.4 5.2 4.5 3.6 1.8 12 2.6 3.2 .1 2.4-.5 2.7-.8-5.7-.3-12-2.5-3.6-1.4-7.6-4.1zM172.5 464l5.2-1.1 2.8 .1-2.6-.8-2.8 .2-5.3 2.4zM177.9 462.2l2.4 1.3 5.6 4.9 3.6 1.8 31.2 7.1 2.6-1.5-30.8-6.8-4-1.6-8-4.4z"/><path transform="translate(30.63 -17.73)" d="M60.5 446l27.3 4.7 4 .3 2.8-.5 2.6-1-7.6-.4-26.4-4.6zM97.2 449.5l7.2-2.6 3.2 .4-2.6-1.4-1.6-.6-1.6 .3-7.2 4.9zM105 445.9l6.4 6.8 3.6 2.4 11.2 2.6 3.2 .2 2.4-.5 2.6-.9-5.6-.2-11.2-2.5-3.6-1.7-6.4-4.8zM134.4 456.5l6.8-2.5 3.2 .4-2.6-1.5-1.6-.5-1.6 .3-6.8 4.7zM141.8 452.9l6.8 7.2 3.2 2.2 4 1.2 7.2 1.4 3.2 .3 2.5-.5 2.6-.9-5.7-.3-11.2-2.5-3.2-1.6-6.8-5zM171.3 463.8l6.8-2.4 3.2 .3-2.6-1.5-1.6-.4-1.6 .3-6.8 4.6zM178.7 460.2l7.2 7.6 3.6 2.3 9.2 2.5 22 4.7 2.6-1.5-31.2-7-4-2-6.8-5.1z"/><path transform="translate(28.72 -16.62)" d="M60.5 446l26.9 4.6 4 .3 2.4-.5 2.6-1-7.2-.4-26.1-4.5zM96.4 449.4l2.4-.9 5.6-3.6 2-.1 1.6 .7-2.6-2.1-1.6-1-2 .4-5.6 6-2.4 1.6zM105.4 443.4l6 8.5 3.6 3 3.6 1.3 6.4 1.3 3.2 .3 2.4-.5 2.6-1-6.4-.4-9.6-2.4-3.2-2-6-6zM133.2 456.3l2.8-1 5.6-3.4 1.6 0 1.6 .7-2.6-2.2-1.6-.9-2 .5-5.2 5.5-2.8 1.8zM142.2 450.4l6.4 8.9 3.2 2.7 3.6 1.4 6.8 1.4 3.2 .2 2.4-.5 2.6-.9-6-.4-10-2.4-3.6-2.3-6-5.9zM170.4 463.6l2.5-.9 5.6-3.4 1.6-.1 1.6 .6-2.6-2.2-1.6-.8-1.6 .4-5.7 5.7-2.4 1.6zM179.1 457.6l6.4 9.1 4 3.2 8 2.4 23.2 5 2.6-1.5-21.6-4.6-9.6-2.6-4-2.4-6.4-6.4z"/><path transform="translate(26.8 -15.52)" d="M60.6 446l26 4.5 4 .3 2.4-.5 2.6-1.1-6.8-.3-25.6-4.4zM95.6 449.2l3.2-1.6 5.6-5.2 2-.3 1.6 .9-2.6-3.1-1.6-1.1-2 .6-5.6 8.2-3.2 2.7zM105.4 439.9l6 10.9 3.2 3.6 3.2 1.5 6 1.3 4 .4 2.4-.5 2.6-1-2.8 .2-4-.6-5.6-1.2-3.2-1.2-3.2-2.6-6-7.7zM132.8 456.1l2.8-1.4 6-5.4 1.6-.2 1.6 .9-2.6-3.1-1.6-1.1-2 .8-5.6 8.2-2.8 2.3zM142.2 446.9l6.4 11.5 3.2 3.4 3.2 1.4 6 1.3 3.6 .4 2.5-.5 2.6-1-2.8 .1-4.5-.7-5.2-1.1-3.2-1.3-3.2-2.7-6-7.7zM169.7 463.4l2.8-1.3 6-5.4 1.6-.2 2 1.1-2.6-3-2-1.4-1.6 .5-6 8.5-2.8 2.2zM179.5 454.6l6.4 11.6 2 2.4 2 1.4 7.6 2.3 23.2 5 2.6-1.5-22.8-4.9-8.4-2.4-4-3-6-7.9z"/><path transform="translate(24.89 -14.41)" d="M60.5 446l25.7 4.4 3.6 .3 2.4-.4 2.6-1.2-6.8-.3-24.9-4.3zM94.8 449.1l2-.8 1.6-1.3 6-7.8 2-.5 1.6 1.1-2.6-3.9-1.6-1.4-.8 0-1.2 .9-6 11.5-1.6 2-2 1.4zM105.4 435.9l6 13.6 3.2 4.5 2.8 1.7 4 1.1 5.2 .7 2.8-.4 2.6-1.1-2.8 .1-5.2-.8-4-1-2.8-1.3-3.2-3.3-6-9.9zM132 456l3.2-1.9 6.4-8 1.6-.4 2 1.5-2.6-3.8-2-1.9-1.6 .7-1.6 2.3-4.8 9.5-1.6 2-1.6 1.1zM142.6 443.4l5.6 13 3.2 4.7 2.4 1.6 4 1.2 5.6 .9 2.8-.4 2.6-1.1-3.2 0-5.2-.9-4-1.1-2.4-1.2-3.2-3.4-5.6-9.5zM168.8 463.3l2.1-.8 1.6-1.4 6-7.6 1.6-.4 2 1.3-2.6-3.8-2-1.7-1.6 .7-6.5 11.9-1.6 1.9-1.6 1zM179.5 450.6l6.4 14.5 2 3 2 1.7 6.8 2.3 24 5.2 2.6-1.5-22.8-4.9-8-2.4-2-1.3-2-2.1-6.4-10.7z"/><path transform="translate(22.97 -13.3)" d="M60.6 446l25.2 4.3 3.6 .3 2.4-.5 2.6-1.1-6.4-.2-24.8-4.3zM94.4 449l2-1 1.6-1.6 6.4-11 2-.8 1.6 1.3-2.6-4.7-1.6-1.7-.8 .1-1.2 1.2-6.4 15.4-1.6 2.4-2 1.5zM105.4 431.2l6 16.7 3.2 5.7 2.4 1.8 3.6 1.1 5.6 .9 2.8-.5 2.6-1.1-2.8 .2-5.6-.9-3.6-1-2.4-1.4-3.2-4.2-6-12.6zM131.6 455.8l2-1.1 1.6-1.7 4.8-8.7 1.6-2.1 1.6-.6 2 1.8-2.6-4.6-2-2.2-1.6 .9-1.6 2.9-4.8 12.2-1.6 2.6-2 1.7zM142.6 438.8l5.6 15.9 3.2 5.9 2.4 1.9 3.2 1.1 5.6 1 3.2-.4 2.7-1.1-3.2 .1-5.7-1-3.2-1-2.4-1.5-3.2-4.3-5.6-12zM168.5 463.1l2-1 1.6-1.7 6.4-10.7 1.6-.7 2 1.6-2.6-4.7-1.2-1.6-.8-.4-1.6 1.1-6.4 15.1-1.6 2.5-2.1 1.6zM179.5 445.9l6.4 17.9 2 3.7 2 2 2.4 1.3 3.6 1.1 24.8 5.4 2.6-1.5-24-5.2-6.8-2.3-2-1.5-2-2.8-6.4-13.4z"/><path transform="translate(21.06 -12.19)" d="M60.5 446l25.3 4.3 3.6 .2 2-.5 2.6-1.1-2.4 .2-4-.4-24.4-4.2zM94 448.9l2-1.2 2-2.6 6.4-14.1 1.2-1.1 .8 0 1.6 1.5-2.6-5.4-1.6-1.9-.8 .1-1.2 1.4-6.4 19.1-2 3.6-2 1.7zM105.4 426l6.4 21.3 2.8 5.8 2 1.9 2.8 1.2 5.6 1.1 3.2-.4 2.6-1.1-3.2 0-5.6-1-2.8-1.1-2-1.5-3.2-5.2-6-15.6zM130.8 455.8l2-1 2-2.5 5.2-11.9 1.6-2.7 1.6-.8 1.6 1.4-2.6-5.4-1.6-1.7-.8 .2-1.2 1.5-6.4 19-2 3.5-2 1.5zM142.2 432.9l1.6 4.2 4.8 17 2.8 6 2 2 3.2 1.4 5.6 1 3.2-.4 2.6-1.1-3.2 .1-5.6-1.1-3.2-1.1-2-1.6-2.8-4.5-6.4-16.5zM168 463l2.1-1.2 2-2.7 6.4-13.9 1.6-.9 2 1.9-2.6-5.4-1.2-1.9-.8-.4-1.6 1.3-1.6 3.7-4.9 15.1-2 3.7-2 1.8zM179.5 440.8l6.4 21.6 2 4.4 2 2.5 2 1.3 3.6 1.1 25.2 5.6 2.6-1.5-24.4-5.3-4-1.2-2.4-1.2-2-1.9-2-3.4-6.4-16.6z"/><path transform="translate(19.15 -11.08)" d="M60.5 446l24.9 4.2 3.6 .3 2-.5 2.6-1.2-2.4 .3-3.6-.4-24.5-4.2zM93.6 448.8l2.4-1.7 2-3.4 6.4-17.7 1.2-1.3 .8-.1 1.6 1.8-2.6-5.9-1.6-2.1-.8 .1-1.2 1.7-6.8 24-2 4-2 1.8zM105.4 420.5l1.6 5.1 4.8 20 2.8 6.9 2 2.3 2.4 1.2 5.6 1.2 3.2-.3 2.6-1.2-3.2 0-5.6-1.1-2.4-1.1-2-1.8-3.2-6.4-6-18.9zM130.4 455.7l2.4-1.6 2-3.1 5.2-15 1.6-3.3 1.6-1 1.6 1.6-2.6-5.9-1.6-2-.8 .3-1.2 1.8-6.4 22.9-2 4.3-2.4 2.2zM142.2 427.4l2 6.3 4.4 18.6 2.8 7.2 2 2.4 2.8 1.4 5.6 1.1 3.2-.4 2.6-1.2-3.2 .2-5.6-1.1-2.8-1.2-2-1.9-2.8-5.6-4.8-16-1.6-3.9zM167.6 462.8l2-1.3 2-3 6.9-18.3 1.6-1.2 .8 .4 1.2 1.8-2.6-5.8-1.2-2.2-.8-.4-1.7 1.5-1.6 4.4-5.2 19.3-2 4.1-2 1.9zM179.5 435.4l6.4 25.3 2 5.3 2 3 2 1.5 3.6 1.2 25.2 5.6 2.6-1.5-24.8-5.5-3.6-1.1-2.4-1.3-2-2.4-2-4.1-6.4-20.2z"/><path transform="translate(17.23 -9.97)" d="M60.5 446l24.5 4.2 3.6 .2 2-.5 2.6-1.2-2.4 .3-3.6-.4-24-4.1zM93.2 448.7l2.4-1.8 2-3.7 6.8-22.5 1.2-1.6 .8-.1 1.6 2-2.6-6-1.6-2.5-.8 .2-1.2 2-1.6 5.3-5.2 22.6-2 4.9-2.4 2.4zM105.4 415l2 7.4 4.4 21.4 2.8 8.1 2 2.6 2.4 1.4 5.2 1.2 3.2-.3 2.6-1.2-3.2 0-5.2-1.1-2.4-1.2-2-2.1-2.8-6.5-4.8-18.9-1.6-4.8zM130 455.6l2.4-1.7 2-3.5 5.6-19.2 1.6-4 .8-1 .8-.2 1.6 1.9-2.6-6.2-1.6-2.1-.8 .3-1.2 2.1-6.8 28-2 4.6-2.4 2.2zM142.2 421.7l2 7.2 4.4 21.5 2.8 8.4 2 2.8 2.4 1.5 5.6 1.2 3.2-.4 2.6-1.2-3.2 .2-5.6-1.2-2.4-1.3-2-2.2-2.8-6.7-4.4-17.6-2-6zM167.2 462.7l2.5-1.8 2-3.8 5.2-18.1 1.6-4.2 1.6-1.5 1.6 1.7-2.6-6.2-1.6-1.9-1.6 1.8-1.6 5.1-5.3 22.6-2 5-2.4 2.5zM179.1 428.8l2 7 5.2 24.7 1.6 4.7 2 3.5 2 1.6 3.2 1.3 25.6 5.7 2.6-1.5-25.2-5.6-3.6-1.2-2-1.4-2-2.8-2-5-4.8-18.9-2-5.9z"/><path transform="translate(15.32 -8.87)" d="M60.5 446l24.1 4.1 3.6 .3 2-.5 2.6-1.2-2.4 .2-3.6-.3-23.7-4.1zM92.8 448.7l2.4-1.9 2.4-5.1 6.8-26.5 1.6-2.1 .8 .3 .8 1.2-2.6-6.1-.8-1.3-.8-.4-1.6 2.4-1.6 6-5.6 27.3-2 5-2.4 2.4zM105 408.5l2 7.2 4.8 26.2 2.8 9.3 2 3.1 2.4 1.6 5.2 1.2 3.2-.5 2.6-1.2-3.2 .2-5.2-1.1-2.4-1.4-2-2.5-2.8-7.7-4.8-22-2-6.3zM130 455.4l2.4-2.1 2-4.3 6.8-26.5 1.6-2.3 .8 .2 .8 1-2.6-6.1-.8-1.2-.8-.1-1.6 2.6-6.8 31.9-2 5.4-2.4 2.7zM141.8 415.3l2 6.9 5.2 28.1 2.4 7.8 2 3.3 2.4 1.6 5.2 1.3 3.2-.4 2.6-1.2-3.2 .1-5.2-1.2-2.4-1.4-2-2.7-2.8-7.9-4.8-22.1-2-6.1zM166.8 462.7l2.4-1.9 2-4.1 5.7-22.7 1.6-4.8 1.6-1.7 1.6 1.8-2.6-6-.8-1.5-.8-.5-.8 .5-1.2 2.6-6.9 31.8-2 5.2-2.4 2.5zM179.1 423.3l2 7.7 5.2 27.9 1.6 5.5 2 4 2 1.8 3.2 1.4 25.6 5.7 2.6-1.5-25.2-5.6-3.6-1.3-2-1.6-2-3.3-1.6-4.5-5.2-23.5-2-6.7z"/><path transform="translate(13.4 -7.76)" d="M60.5 446l24.1 4.1 3.6 .2 2-.5 2.6-1.3-2 .4-3.6-.3-24-4.1zM92.8 448.5l2.4-2.3 2-4.7 5.6-26.1 1.6-5.8 1.6-2.3 .8 .3 .8 1.3-2.6-5.6-.8-1.4-.8-.3-1.6 2.6-1.6 6.4-5.6 30.6-2 5.7-2.4 2.9zM105 403.3l2 7.8 5.2 30.9 2.4 8.6 1.6 3 2.4 2 5.2 1.4 3.2-.4 2.6-1.3-3.2 .2-5.2-1.3-2.4-1.7-1.6-2.5-2.8-8.9-4.8-25.1-2-7.1zM129.6 455.3l1.6-1 1.2-1.6 2-5.2 6.8-30.5 1.6-2.5 .8 .1 .8 1.2-2.6-5.7-.8-1.2-.8-.2-1.6 2.9-7.2 37-2 5.5-2.4 2.5zM141.8 410.1l2.4 9.6 4.8 28.9 2.8 9.8 2 3.2 2.4 1.5 5.2 1.2 2.8-.6 2.6-1.2-3.2 .3-5.2-1.2-2.4-1.6-2-3.1-2.4-7.5-5.2-26.9-2-6.7zM166.8 462.5l2.5-2.4 2-4.9 6.8-30.4 1.6-2.9 .8 0 .8 1-2.6-5.7-.8-1.1-.8 .1-1.6 3.1-6.9 35.5-2 6-2.4 2.9zM178.7 417.2l2.4 9.2 5.2 31 1.6 6.2 2 4.4 2 2.1 3.2 1.5 25.6 5.7 2.6-1.5-25.6-5.7-3.2-1.3-2-1.8-2-3.8-1.6-5.2-5.2-26.8-2.4-8.3z"/><path transform="translate(11.49 -6.65)" d="M60.5 446l23.7 4 3.6 .3 2-.5 2.6-1.3-2 .3-3.6-.3-23.7-4zM92.4 448.5l1.6-1.1 1.2-1.8 2-5.5 5.6-29.4 1.6-6.3 1.6-2.5 1.2 .9-2.6-4.9-.8-.9-.8 .3-1.6 3.7-6.8 38.9-2 6.5-1.2 2.1-1.6 1.3zM104.6 397.9l2 6.9 5.2 33.5 2.8 11.7 1.6 3.3 2.4 2.3 5.2 1.3 3.2-.4 2.6-1.3-3.2 .3-5.2-1.3-2.4-2-1.6-2.9-2.4-8.2-5.2-29.9-2.4-8.4zM129.6 455.2l2.4-2.5 2.4-6.7 5.2-27.7 1.6-6.5 1.6-2.8 1.2 .7-2.6-4.9-.8-.7-.8 .4-1.6 4-6.8 38.9-2 6.1-2.4 3zM141.4 404.8l2 6.5 5.6 35.7 2.8 10.9 1.6 3 2.4 2 4.8 1.3 3.2-.4 2.6-1.3-3.6 .1-4.8-1.3-2.4-2.1-1.6-3-2.8-10.5-5.2-29.9-2-6.1zM166.4 462.5l1.6-1.2 1.2-1.8 2-5.7 6.9-34.2 1.6-3.1 .8 0 .8 1-2.6-4.8-.8-1.1-.8 0-1.6 3.3-1.7 7.3-5.2 31.3-2.4 7.6-2.4 2.7zM178.7 412.7l2.4 9.6 5.6 35.6 1.6 6.1 2 4.3 2 2 3.2 1.4 25.2 5.6 2.6-1.5-25.6-5.7-3.2-1.4-2-2.1-2-4.3-1.6-5.9-5.2-29.9-2.4-9z"/><path transform="translate(9.57 -5.54)" d="M60.5 446l24.1 4.1 3.2 .2 2-.6 2.6-1.3-2 .4-3.6-.3-23.6-4zM92.4 448.4l1.6-1.3 1.2-2 2-6.3 6.8-37.8 1.6-3.7 .8-.2 .8 .9-2.6-3.8-.8-.9-.8 .2-1.6 3.8-6.8 41.5-2 7.1-1.2 2.3-1.6 1.5zM104.6 394.2l1.2 3.4 1.2 5.8 4.8 33.4 2.8 12.7 1.6 3.6 2.4 2.4 4.8 1.4 3.2-.3 2.6-1.4-3.6 .1-4.4-1.2-2.4-2.2-1.6-3.2-2.8-11.3-5.2-32.6-2-6.8zM129.2 455.2l2.4-2.3 2-5.1 2-9.2 4.8-28.4 2-5.7 .8-.4 .8 .7-2.6-3.8-.8-.7-.8 .4-1.6 4.2-6.8 41.4-2 6.8-1.2 2.1-1.6 1.4zM141.4 401l1.2 3.2 1.2 5.6 5.2 35.8 2.8 11.8 1.6 3.3 2.4 2.1 4.8 1.3 3.2-.4 2.6-1.4-3.2 .4-4.8-1.3-2.4-1.9-1.6-2.9-2.8-10.6-5.6-34.7-2-6.5zM166.4 462.3l2.1-1.9 2-4.9 2-8.9 5.2-30.2 1.6-4.4 .8-.5 .8 .5-2.6-3.8-.8-.5-.8 .5-1.6 4.5-6.9 41.5-2 6.4-2.4 3.1zM178.3 408.2l1.2 2.9 1.6 7.7 5.6 38 1.6 6.6 2 4.7 2 2.1 3.2 1.4 25.2 5.7 2.6-1.5-25.2-5.6-3.2-1.4-2-1.9-2-4.1-1.6-6-6-36.8-1.2-5.1-1.2-2.9z"/><path transform="translate(7.66 -4.43)" d="M60.5 446l24.1 4.1 3.2 .1 2-.6 2.6-1.3-2 .5-3.6-.3-23.7-4.1zM92.4 448.3l2-2.1 2-5.2 2-9.6 5.2-32.7 1.6-4.9 .8-.8 .8 .3-2.6-2.5-1.2-.1-.8 1.3-1.6 6-4.8 33-2 10.5-2 5.8-2 2.3zM104.2 390.8l1.2 2.5 1.2 5.1 5.6 39.7 2.8 12.1 1.6 3.3 2.4 2.2 4.4 1.2 3.2-.4 2.6-1.4-3.2 .3-4.8-1.4-2.4-2.4-1.6-3.4-2.8-12.4-5.2-34.9-1.2-5-1.2-2.6zM129.2 455.1l2.4-2.6 2-5.7 2-10.1 4.8-30.4 1.6-5.2 .8-1 .8 .2-2.6-2.5-.8-.2-.8 .9-1.6 5.2-5.2 35.1-2 10.1-2 5.4-2 2.2zM141 397.8l1.2 2.2 1.6 7 5.2 37.5 2.8 12.5 1.6 3.5 2.4 2.3 4.4 1.3 3.2-.3 2.6-1.4-3.2 .2-4.4-1.2-2.4-2.2-1.6-3.1-2.8-11.5-5.6-37.2-1.2-4.8-1.2-2.3zM166 462.4l2.4-2.4 2-5.4 2.1-9.8 4.8-30.6 1.6-5.5 .8-1.1 .8-.1-2.6-2.5-.8 0-.8 1.1-1.6 5.6-4.9 32.6-2 10.8-2 6-2.4 2.7zM177.9 405l1.6 3.3 1.2 5.4 6.4 44.3 1.6 6.3 1.6 3.6 2 2.3 3.2 1.4 25.2 5.7 2.6-1.6-25.2-5.6-3.2-1.3-2-2.1-2-4.6-1.6-6.4-6-39.5-1.6-6.6-1.2-2.1z"/><path transform="translate(5.74 -3.32)" d="M60.5 446l23.3 3.9 3.6 .3 2-.4 2.6-1.4-2 .4-3.6-.4-23.2-4zM92 448.4l2.4-2.5 2-5.7 2-10.2 4.8-32.6 1.6-6 .8-1.3 .8-.2-2.6-1.1-.8 .2-.8 1.2-1.6 5.9-4.8 34-2 10.9-2 6.1-2.4 2.7zM103.8 388.8l1.6 2.6 1.2 5.1 5.6 40.8 2.8 12.7 1.6 3.4 2.4 2.2 4.4 1.2 3.2-.4 2.6-1.4-3.2 .3-4.4-1.1-2.4-2.2-1.6-3.2-2.8-11.9-5.6-39.1-1.2-5.1-1.6-2.8zM129.2 455l2.4-2.8 2-6.2 2-10.8 4.4-30.1 1.6-6.3 .8-1.5 .8-.4-2.6-1.1-.8 .3-.8 1.4-1.6 6.3-6.4 42.9-2 6.7-1.2 2-1.2 1zM140.6 395.8l1.6 2.3 1.6 7 5.2 38.6 2.8 13.1 1.6 3.6 2.4 2.4 4.4 1.3 3.2-.4 2.7-1.4-3.3 .3-4.4-1.3-2.4-2.3-1.6-3.3-2.8-12.4-5.6-39.1-1.2-4.8-1.6-2.5zM166.1 462.3l2.4-2.6 2-5.9 2-10.5 4.8-32.2 1.6-5.6 .8-1.1 .8 0-2.6-1.1-.8 0-.8 1-1.6 5.5-6.8 44.8-2.1 6.3-1.2 1.9-1.2 .9zM177.9 403.3l1.6 3.1 1.2 5.4 6.4 45.6 1.6 6.6 1.6 3.8 2 2.3 3.2 1.5 25.2 5.7 2.6-1.6-25.2-5.6-3.2-1.4-2-2.2-1.6-3.6-1.6-6.2-6.4-43.6-1.6-6.6-1.2-2.1z"/><path transform="translate(3.83 -2.22)" d="M60.5 446l23.3 4 3.6 .2 2-.4 2.6-1.5-2 .4-3.6-.3-23.3-3.9zM92 448.3l2.4-2.7 2-5.9 2-10.8 4.8-33.7 1.2-4.9 1.6-2.5-2.6 .1-.8 .6-.8 1.7-1.2 4.9-4.8 34.5-2 11.2-2 6.2-2.4 2.8zM103.4 387.9l.8 .3 .8 1.2 1.6 6 5.6 41.5 2.8 12.9 1.6 3.5 2.4 2.3 4.4 1.2 3.2-.4 2.6-1.5-3.2 .4-4.4-1.2-2.4-2.2-1.6-3.4-2.8-12.4-5.6-40.6-1.6-6.1-.8-1.3-.8-.3zM129.2 454.9l1.2-1 1.2-2 2-6.5 6.4-42.5 1.2-5.2 1.6-2.8-2.6 .1-.8 .8-.8 1.9-1.2 5.1-6.4 43.6-2 6.8-1.2 2.1-1.2 1.1zM140.2 395l.8 .2 .8 1 1.6 5.7 5.6 41.3 2.8 13.4 1.6 3.7 2.4 2.5 4.4 1.3 3.2-.4 2.6-1.5-3.2 .4-4.4-1.3-2.4-2.4-1.6-3.5-2.8-13-5.6-40.4-1.6-5.8-.8-1.2-.8-.1zM166 462.2l1.2-.9 1.2-1.8 2-6.3 2.1-11 4.4-31.3 1.6-6.6 .8-1.6 .8-.5-2.6 .2-.8 .4-.8 1.4-1.6 6.6-4.5 32-2 11.5-2 6.5-1.2 1.9-1.2 1zM177.5 402.4l.8 .4 .8 1.4 1.2 4.5 6.4 46.2 1.6 7.5 2 5.3 2 2.4 3.2 1.5 25.2 5.7 2.6-1.5-25.2-5.7-3.2-1.4-2-2.4-2-5.1-1.6-7.3-6.4-45.1-1.2-4.5-.8-1.6-.8-.5z"/><path transform="translate(1.91 -1.11)" d="M61.2 445.6l23.3 4 3.6 .2 2-.4 1.9-1.1-2 .4-3.6-.3-23.2-3.9zM92 448.3l2.4-2.8 2-6.2 2-11.1 4.4-32.2 1.6-7 1.2-2.2-1.9 .8-1.2 2-1.6 7.1-4.4 32.4-2 11.2-2 6.3-2.4 2.8zM103.7 387.6l1.2 .1 .8 1.2 1.6 5.9 5.6 41.6 2.8 13 1.6 3.5 2.4 2.3 4.4 1.2 3.2-.4 1.9-1.1-3.2 .4-4.4-1.2-2.4-2.3-1.6-3.4-2.8-12.9-5.6-41.3-1.6-6.1-.8-1.2-1.2-.1zM129.2 454.9l1.2-1.1 1.2-2 2-6.8 6.4-43.4 1.2-5.2 1.6-2.7-1.9 .8-.8 .7-.8 1.9-1.2 5.1-6.4 43.8-2 6.8-1.2 2.1-1.2 1.1zM140.9 394.5l.8 .2 .8 1 1.6 5.6 5.6 41.4 2.8 13.5 1.6 3.7 2.4 2.5 4.4 1.3 3.2-.4 2-1.1-3.3 .3-4.4-1.2-2.4-2.5-1.6-3.6-2.8-13.4-5.6-41.2-1.6-5.6-.8-1.1-.8-.2zM166.1 462.2l1.2-1 1.2-1.9 2-6.4 2-11.4 4.4-31.9 1.2-5.4 1.6-3.1-2 .8-1.6 2.9-1.2 5.4-4.4 32.1-2 11.5-2 6.6-1.2 1.9-1.2 1zM177.7 401.9l.8 .1 .9 .8 1.6 5.3 6.4 46.3 1.6 7.6 2 5.3 2 2.4 3.2 1.5 25.2 5.7 1.9-1.1-25.2-5.7-3.2-1.5-2-2.4-2-5.2-1.6-7.5-6.4-46.1-1.6-5.3-.8-.9-.8-.1z"/></g>
<g text-anchor="middle" font-size="12"><text x="69.7" y="491.3">12</text><text x="87.9" y="494.8">9</text><text x="106.2" y="498.4">6</text><text x="124.5" y="502.0">3</text><text x="142.7" y="505.5">0</text><text x="159.0" y="509.1">-3</text><text x="177.3" y="512.7">-6</text><text x="195.5" y="516.3">-9</text><text x="213.8" y="519.8">-12</text><text x="236.9" y="515.9">0</text><text x="267.5" y="498.2">2</text><text x="298.2" y="480.4">4</text><text x="328.8" y="462.7">6</text></g>
<g text-anchor="middle" font-size="13.5"><text x="120.0" y="516.0">z</text><text x="309.5" y="495.0">ρ</text><text x="11.7" y="392.0" text-anchor="start">q(z,ρ)</text></g>
<g text-anchor="end" font-size="12"><text x="56.6" y="447.4">0</text><text x="56.6" y="412.9">10</text><text x="56.6" y="378.5">20</text></g>
<!-- h -->
<g fill="none" stroke="#000" stroke-width=".55">
<path d="M392.9 481.6L548.1 510.7L640.5 459.5L485.3 430.4Z"/>
<path d="M399.4 482.8L400.9 482.0M491.8 431.6L490.3 432.4M417.2 486.2L418.7 485.3M509.6 435.0L508.1 435.8M435.0 489.5L436.4 488.7M527.4 438.3L525.9 439.1M452.7 492.8L454.2 492.0M545.1 441.6L543.6 442.4M470.5 496.1L472.0 495.3M562.9 444.9L561.4 445.8M488.3 499.5L489.8 498.7M580.7 448.3L579.2 449.1M506.0 502.8L507.5 502.0M598.4 451.6L597.0 452.4M523.8 506.1L525.3 505.3M616.2 454.9L614.7 455.8M541.6 509.5L543.1 508.7M634.0 458.3L632.5 459.1M578.9 493.6L575.6 493.0M423.7 464.5L427.0 465.2M609.7 476.6L606.4 475.9M454.5 447.5L457.8 448.1"/>
</g>
<g fill="none" stroke-width=".42">
<path d="M476.3 497.2l5.1-3 4.2-3.1 2.1-2.1 .5-1-.1-.6-.9-.5-1.7 0-5.5 1.3-7 2.7-8.3 4.2" stroke="#00c000" stroke-dasharray="2 1"/>
<path d="M482.2 498.3l10.9-6.5 8.1-5.9 4.2-4.3 1-2-.2-1.3-1.8-.9-3.4-.1-5.2 1-6.6 1.9-14.7 5.9-15.7 7.9" stroke="#0000ff" stroke-dasharray="1 2"/>
<path d="M541.7 441l-44.1 26-45.5 25.7M488.9 499.6l46.9-25.5 48.3-25.2" stroke="#ff00ff" stroke-dasharray=".7 .5"/>
<path d="M422.6 487.2l15-7.5 7.6-3.1 7.3-2.6 5.3-1.5 5.1-.9 3.5 0 1.8 .9 .3 1.3-.9 1.8-3.9 4.2-7.7 5.6-10.2 6.1M495.2 500.8l15.8-7.9 13.9-5.4 5.5-1.5 5.1-.9 3.3 .1 1.7 .9 .3 1.3-.8 1.8-4.2 4.4-7.3 5.4-10.1 6.1" stroke="#00ffff" stroke-dasharray="2.5 1 .6 1"/>
<path d="M428 488.2l8.3-4.2 7.8-2.9 5.9-1.4 1.7 0 1 .4 .2 .8-.2 .7-2.6 2.7-4.3 3.2-5.1 3.1M500.3 501.7l8.3-4.1 8-3.1 5.9-1.3 1.6 .1 .9 .4 .2 .7-.3 .9-2.5 2.6-3.6 2.7-5.8 3.5" stroke="#e8e800" stroke-dasharray=".8 1.5"/>
</g>
<g fill="none" stroke="#000" stroke-width=".6">
<path d="M392.5 481.6L392.5 380.4M392.5 438.5L396.0 438.5M392.5 426.5L396.0 426.5M392.5 413.5L396.0 413.5M392.5 401.5L396.0 401.5M392.5 389.5L396.0 389.5"/>
</g>
<linearGradient id="Ph" gradientUnits="userSpaceOnUse" x1="392.90" y1="446.86" x2="403.93" y2="388.06"><stop offset="0" stop-color="#ecdce6"/><stop offset="0.026" stop-color="#e2cdd9"/><stop offset="0.052" stop-color="#d4b9c6"/><stop offset="0.087" stop-color="#c3a0ac"/><stop offset="0.131" stop-color="#aa8087"/><stop offset="0.175" stop-color="#91625f"/><stop offset="0.218" stop-color="#7a463a"/><stop offset="0.253" stop-color="#642816"/><stop offset="0.291" stop-color="#46050a"/><stop offset="0.339" stop-color="#370050"/><stop offset="0.391" stop-color="#32008c"/><stop offset="0.445" stop-color="#3200be"/><stop offset="0.497" stop-color="#2d00e6"/><stop offset="0.558" stop-color="#2600f2"/><stop offset="0.603" stop-color="#1e00ff"/><stop offset="0.687" stop-color="#0058ff"/><stop offset="0.776" stop-color="#0096ff"/><stop offset="0.843" stop-color="#00cdff"/><stop offset="0.888" stop-color="#00ebff"/><stop offset="0.922" stop-color="#00ffff"/><stop offset="1" stop-color="#00ffff"/></linearGradient>
<g stroke-width=".4" stroke-linejoin="round" fill="url(#Ph)" stroke="url(#Ph)"><path d="M469.2 371.5l155.2 29.1 16.1-8.9-155.2-29.1z" fill="#2600f2" stroke="#2600f2"/><path d="M461.5 375.8l43.5 8.5 34.1 5.3 34.2 7.5 43.4 7.8 8.4-4.7-155.2-29.1z" fill="#2600f2" stroke="#2600f2"/><path d="M457.7 377.9l43 8.7 34.6 4.8 34.5 8.1 43.1 7.5 4.5-2.5-43.5-7.8-34.1-7.4-34.1-5.4-43.5-8.5z" fill="#2600f2" stroke="#2600f2"/><path d="M455.7 379l22.9 4.3 20.2 4.5 34.5 4.4 34.6 8.6 20.1 3.1 22.9 4.2 2.7-1.5-43.1-7.5-34.5-8-34.6-5-43-8.6z" fill="#2600f2" stroke="#2600f2"/><path d="M454.8 379.5l22.9 4.4 20.1 4.5 34.6 4.2 34.5 8.8 20.2 3 22.9 4.2 1.6-.9-43-7.4-34.6-8.4-34.5-4.5-43.1-8.8z" fill="#2600f2" stroke="#2600f2"/><path transform="translate(62.08 -34.4)" d="M391.7 414.5l22.9 4.3 20.2 4.7 34.5 3.9 34.6 9 20.1 2.9 22.9 4.3 1.7-1-22.9-4.2-20.2-3.1-34.5-8.6-34.5-4.3-20.2-4.5-22.9-4.4z"/><path transform="translate(61.12 -33.87)" d="M391.7 414.5l22.9 4.3 20.2 4.8 34.5 3.6 34.6 9.3 20.1 2.9 22.9 4.2 1.7-1-22.9-4.2-20.2-3-34.5-8.8-34.6-4.1-20.1-4.6-22.9-4.4z"/><path transform="translate(60.16 -33.33)" d="M391.7 414.4l22.9 4.4 20.2 4.9 34.5 3.4 34.6 9.5 20.1 2.8 22.9 4.1 1.7-.9-22.9-4.2-20.2-2.9-34.5-9.1-34.6-3.8-20.1-4.7-22.9-4.4z"/><path transform="translate(59.19 -32.8)" d="M391.7 414.5l22.9 4.4 20.2 4.9 34.5 3.1 34.6 9.9 20.1 2.6 22.9 4.2 1.7-1-22.9-4.2-20.2-2.8-34.5-9.3-34.5-3.6-20.2-4.8-22.9-4.4z"/><path transform="translate(58.23 -32.27)" d="M391.7 414.5l22.9 4.4 20.2 5.1 34.5 2.7 34.6 10.2 20.1 2.5 22.9 4.2 1.7-1-22.9-4.2-20.2-2.6-34.5-9.7-34.5-3.3-20.2-4.9-22.9-4.4z"/><path transform="translate(57.27 -31.73)" d="M391.7 414.4l22.9 4.5 19.8 5.2 34.9 2.4 34.9 10.7 19.8 2.2 22.9 4.1 1.7-.9-22.9-4.1-20.2-2.6-34.5-10-34.6-3-20.1-5-22.9-4.4z"/><path transform="translate(56.31 -31.2)" d="M391.7 414.5l22.9 4.4 19.8 5.3 34.9 2.1 34.9 11 19.8 2.1 22.9 4.2 1.7-1-22.9-4.1-20.2-2.5-34.5-10.3-34.6-2.6-20.1-5.1-22.9-4.5z"/><path transform="translate(55.34 -30.67)" d="M391.7 414.5l22.9 4.4 19.8 5.5 34.9 1.6 34.9 11.5 19.8 1.9 22.9 4.2 1.7-1-22.9-4.1-19.8-2.2-34.9-10.8-34.9-2.3-19.8-5.2-22.9-4.5z"/><path transform="translate(54.38 -30.13)" d="M391.7 414.4l22.9 4.5 15.2 4.7 4.6 1 19 .9 11.7-.2 4.2 .5 34.9 11.9 4.7 .7 15.1 1 22.9 4.1 1.7-.9-22.9-4.1-19.8-2-34.9-11.2-34.9-1.9-19.8-5.4-22.9-4.5z"/><path transform="translate(53.42 -29.6)" d="M391.7 414.5l22.9 4.5 15.1 4.8 4.7 1.1 19 .6 11.7-.4 4.2 .4 4.3 1.2 11.6 4.7 19 6.6 4.7 .7 15.1 .8 22.9 4.1 1.7-1-22.9-4.1-19.8-1.8-34.9-11.7-34.9-1.4-19.8-5.6-22.9-4.5z"/><path transform="translate(52.46 -29.07)" d="M391.7 414.5l22.9 4.5 15.1 5 4.7 1.1 19.4 .3 11.3-.6 4.2 .4 4.3 1.2 11.2 4.8 19.4 7 4.7 .7 15.1 .6 22.9 4.1 1.7-1-22.9-4.1-15.1-.9-4.7-.7-34.9-12.1-4.3-.5-11.6 .3-19-.8-4.7-1-15.1-4.8-22.9-4.5z"/><path transform="translate(51.49 -28.53)" d="M391.7 414.4l22.9 4.6 15.2 5.3 4.6 1.1 19.4 0 11.3-.9 4.2 .4 4.3 1.2 11.2 5.1 19.4 7.2 4.7 .7 15.1 .4 22.9 4 1.7-.9-22.9-4-15.1-.8-4.7-.7-19-6.6-11.6-4.8-4.3-1.2-4.3-.4-11.6 .4-19-.5-4.7-1-15.1-5-22.9-4.5z"/><path transform="translate(50.53 -28)" d="M391.7 414.5l22.9 4.5 15.2 5.5 4.6 1.1 19.4-.3 11.3-1 4.2 .3 4.3 1.3 11.2 5.2 19.4 7.6 4.7 .7 15.1 .1 22.9 4.1 1.7-1-22.9-4-15.1-.6-4.7-.7-19.4-7-11.2-4.9-4.3-1.2-4.3-.4-11.2 .7-19.4-.2-4.7-1.1-15.1-5.1-22.9-4.6z"/><path transform="translate(49.57 -27.47)" d="M391.7 414.5l22.9 4.5 5.4 1.8 9.7 4 4.7 1.1 19.4-.6 11.3-1.3 4.2 .2 4.3 1.4 11.2 5.5 19.4 7.9 4.7 .7 9.7-.4 5.4 .3 22.9 4 1.7-1-22.9-4-15.1-.3-4.7-.7-19.4-7.3-11.3-5.1-4.2-1.3-4.3-.3-11.2 .8-19.4 .1-4.7-1.1-15.1-5.3-22.9-4.6z"/><path transform="translate(48.61 -26.93)" d="M391.7 414.4l22.9 4.7 5.4 1.8 9.7 4.2 4.7 1.2 4.3 0 15.1-1.1 11.3-1.6 4.2 .3 4.3 1.3 11.2 5.8 19.4 8.3 4.7 .7 9.7-.6 5.4 .2 22.9 3.9 1.7-.9-22.9-4-5.4-.3-9.7 .2-4.7-.6-19.4-7.7-11.3-5.3-4.2-1.3-4.3-.3-11.2 1.1-19.4 .4-4.7-1.1-15.1-5.6-22.9-4.6z"/><path transform="translate(47.64 -26.4)" d="M391.7 414.5l22.9 4.6 5.5 1.9 9.7 4.4 4.6 1.2 3.9 .1 15.5-1.6 11.3-1.8 4.2 .2 4.3 1.4 11.2 6 15.6 7.4 3.8 1.4 4.7 .6 9.7-.8 5.4 .1 22.9 4 1.7-1-22.9-3.9-5.4-.3-9.7 .4-4.7-.6-19.4-8.1-11.2-5.5-4.3-1.4-4.3-.3-11.2 1.4-15.2 .9-4.2-.1-4.7-1.1-9.7-4.1-5.4-1.8-22.9-4.6z"/><path transform="translate(46.68 -25.87)" d="M391.7 414.5l22.9 4.6 5.5 2 9.7 4.7 4.6 1.2 3.9 0 15.5-1.9 11.3-2.2 4.2 .2 4.3 1.4 11.2 6.4 15.6 7.7 3.8 1.5 4.7 .5 9.7-1 5.4 .1 22.9 3.9 1.7-1-22.9-3.9-5.4-.2-9.7 .6-4.7-.6-4.3-1.5-15.1-6.9-11.2-5.9-4.3-1.4-4.3-.2-11.2 1.7-15.2 1.2-4.2-.1-4.7-1.1-9.7-4.3-5.4-1.8-22.9-4.7z"/><path transform="translate(45.72 -25.33)" d="M391.7 414.4l22.9 4.8 5.4 2 9.7 4.9 4.7 1.3 3.9-.1 15.9-2.4 10.9-2.3 4.2 0 4.3 1.6 10.9 6.4 15.9 8.3 3.8 1.5 4.7 .6 9.7-1.3 5.4 0 22.9 3.8 1.7-.9-22.9-3.9-5.4-.1-9.7 .8-4.7-.5-3.9-1.4-15.5-7.5-11.3-6.1-4.2-1.5-4.3-.1-11.2 1.9-15.6 1.6-3.8 0-4.7-1.2-9.7-4.5-5.4-1.9-22.9-4.7z"/><path transform="translate(44.76 -24.8)" d="M391.7 414.5l22.9 4.7 5.4 2.1 9.7 5.2 4.3 1.2 5.1-.2 15.9-2.8 5.4-1.4 1.7-.5-5.9 1.2-15.5 2-5 .1-4.3-1.1-9.7-4.8-5.4-2-22.9-4.7zM462.1 422.8l4.6-.9-1.6 .3-4.7 1.1zM465.1 422.2l3.8-.1 3.9 1.3 12 7.3 15.6 8.6 4.2 1.7 4.3 .4 9.7-1.6 5.4-.1 22.9 3.9 1.7-1-22.9-3.9-5.4 0-9.7 1.1-4.3-.4-4.3-1.6-15.5-7.9-12-6.7-3.9-1.2-3.9-.1z"/><path transform="translate(43.79 -24.27)" d="M391.7 414.5l22.9 4.7 5.5 2.3 9.7 5.4 4.2 1.3 4.7-.3 20.5-4.5 1.7-.5-20.6 3.5-4.6 .1-4.3-1.2-9.7-5-5.4-2-22.9-4.8zM460.9 422.9l6.6-1.5-1.7 .2-6.6 1.8zM465.8 421.6l3.5 .1 3.9 1.4 11.6 7.6 15.6 8.9 4.2 1.8 4.3 .4 9.7-1.9 5.4-.1 22.9 3.8 1.7-1-22.9-3.8-5.4 0-9.7 1.4-4.3-.4-4.3-1.7-15.5-8.2-11.6-7-3.9-1.3-3.5-.2z"/><path transform="translate(42.83 -23.73)" d="M391.7 414.4l16.3 3.2 7 1.8 5.4 2.4 9 5.4 4.2 1.4 5.1-.3 19.8-4.9 1.6-.5-19.8 3.9-5 .1-4.3-1.4-8.9-4.9-5.4-2.2-23.3-4.9zM460.1 422.9l8.2-1.9-1.7 .1-8.1 2.3zM466.6 421.1l3.1 .2 3.5 1.4 11.3 7.6 15.9 9.7 4.2 1.9 4.3 .3 9.7-2.1 5.4-.3 6.6 .8 16.3 2.9 1.7-.9-22.9-3.8-5.4 .1-9.7 1.7-4.7-.5-3.9-1.6-15.9-8.9-11.2-7.1-3.5-1.3-3.1-.2z"/><path transform="translate(41.87 -23.2)" d="M391.7 414.5l16.3 3.1 7 1.9 5.4 2.5 9 5.6 4.2 1.5 4.7-.3 19.4-5.3 1.6-.6-19.4 4.3-4.6 .1-4.3-1.3-8.9-5.2-5.4-2.3-7-1.8-16.3-3.2zM459.3 422.9l5.9-1.8 3.5-.6-1.7 .1-3.5 .7-5.8 2.2zM467 420.6l3.1 .3 3.5 1.6 10.9 7.8 15.9 10.1 3.8 1.9 4.7 .4 9.7-2.5 5.4-.4 6.6 .8 16.3 3 1.7-1-22.9-3.7-5.4 .2-9.7 1.9-4.7-.5-3.9-1.7-15.9-9.3-11.2-7.4-3.1-1.2-3.1-.4z"/><path transform="translate(40.91 -22.67)" d="M391.7 414.5l16.3 3.1 7 1.9 5.4 2.6 9 6 4.2 1.5 4.7-.4 18.6-5.6 1.7-.6-18.7 4.6-4.6 .2-4.3-1.4-8.9-5.5-5.4-2.4-7-1.8-16.3-3.2zM458.6 423l6.9-2.4 3.5-.6-1.6 .1-3.5 .6-7 2.9zM467.4 420.1l3.1 .4 3.1 1.5 10.9 8.2 15.9 10.7 3.8 1.9 4.7 .3 9.7-2.7 5.4-.5 6.6 .7 16.3 3 1.7-1-16.3-2.9-6.6-.8-5.4 .3-9.7 2.2-4.7-.4-3.9-1.8-15.9-9.8-10.9-7.5-3.1-1.4-3.1-.5z"/><path transform="translate(39.94 -22.13)" d="M391.7 414.4l16.3 3.2 7 2 5.4 2.7 9 6.3 4.2 1.5 4.7-.4 17.8-6 1.7-.7-17.9 5-4.6 .3-4.3-1.5-8.9-5.7-5.4-2.5-7-1.9-16.3-3.2zM457.8 423l7.8-2.9 3.8-.6-1.6 0-3.9 .8-7.8 3.4zM467.8 419.5l2.7 .5 3.1 1.5 10.5 8.3 16.3 11.5 3.8 2 4.7 .3 9.7-3.1 5.4-.6 6.6 .7 16.3 2.9 1.7-.9-16.3-2.9-6.6-.8-5.4 .4-9.7 2.6-4.7-.4-3.9-1.9-15.9-10.3-10.8-7.9-3.2-1.4-2.7-.5z"/><path transform="translate(38.98 -21.6)" d="M391.7 414.5l16.3 3.1 7 2 5.4 2.9 9 6.6 4.2 1.6 4.7-.5 8.1-3.4 9.3-3.1 1.7-.7-17.5 5.4-4.6 .4-4.3-1.5-8.9-6-5.4-2.7-7-1.9-16.3-3.2zM457.4 423l8.2-3.3 4.2-.7-1.6 0-4.3 .8-8.2 3.9zM468.2 419l2.7 .6 2.7 1.4 9.7 8.1 16.3 12.1 4.6 2.7 2.4 .4 2.3-.1 9.7-3.5 5.4-.7 6.6 .6 16.3 3 1.7-1-16.3-2.9-6.6-.7-5.4 .5-9.7 2.9-4.7-.4-3.9-1.9-16.3-11.2-10.4-7.9-2.8-1.4-2.7-.6z"/><path transform="translate(38.02 -21.07)" d="M391.7 414.5l16.3 3.1 7 2.1 5.4 3 9 6.9 4.2 1.7 4.3-.5 8.5-3.9 8.6-3 1.6-.7-8.5 2.6-8.2 3.1-4.6 .5-4.3-1.6-8.9-6.4-5.4-2.7-7-2-16.3-3.2zM456.6 423.2l8.9-4 4.3-.7-1.6-.1-4.3 .9-8.9 4.6zM468.2 418.4l2.7 .6 2.7 1.5 9.7 8.4 8.9 6.6 7.8 6.5 4.6 2.6 4.3 .1 9.7-3.8 5.4-.9 6.6 .6 16.3 3 1.7-1-16.3-2.9-6.6-.7-5.4 .7-9.7 3.2-4.7-.3-3.9-2.1-16.3-11.7-10.5-8.3-2.7-1.5-2.7-.5z"/><path transform="translate(37.06 -20.53)" d="M391.7 414.4l16.3 3.2 7 2.1 5.4 3.2 9 7.3 4.2 1.7 4.3-.6 8.5-4.2 8.2-3.2 1.6-.7-8.1 2.7-8.6 3.6-4.2 .5-4.3-1.7-8.9-6.7-5.4-2.9-7-2-16.3-3.2zM456.2 423.2l9.7-4.6 4.3-.7-1.7-.1-4.2 .9-9.7 5.2zM468.5 417.8l2.8 .8 2.7 1.7 8.9 8.1 9.3 7.3 7.8 6.8 4.6 2.7 4.3 .1 9.7-4.2 5.4-1 6.6 .5 16.3 2.9 1.7-.9-16.3-2.9-6.6-.6-5.4 .7-9.7 3.6-2.4 .2-2.3-.5-3.9-2.1-16.3-12.3-10.1-8.5-2.7-1.6-2.7-.7z"/><path transform="translate(36.09 -20)" d="M391.7 414.5l16.3 3.1 7 2.2 5.4 3.3 9 7.7 3.8 1.7 2.4 .1 2.3-.7 8.5-4.6 7.4-3.2 1.7-.7-7.4 2.7-8.5 3.9-2.4 .6-2.3-.1-3.9-1.6-8.9-7.1-5.4-3-7-2.1-16.3-3.2zM455.5 423.4l10.4-5.3 4.3-.8-1.6-.1-4.3 .9-10.5 6zM468.6 417.2l2.7 .8 2.7 1.7 8.9 8.6 9.3 7.6 7.8 7.1 4.6 2.9 2 .3 2.3-.3 9.7-4.6 5.4-1.2 6.6 .5 16.3 3 1.7-1-16.3-2.9-6.6-.6-5.4 .9-9.7 4-2.4 .2-2.3-.5-4.7-2.8-7.3-6.2-9.3-7.1-9-7.9-2.7-1.6-2.7-.8z"/><path transform="translate(35.13 -19.47)" d="M391.7 414.5l16.3 3.1 7 2.3 5.4 3.4 9 8.1 3.8 1.8 2.4 0 2.3-.7 8.5-5.1 7-3.2 1.7-.8-7 2.8-8.5 4.4-2.4 .6-2.3 0-3.9-1.7-8.9-7.5-5.4-3.2-7-2.1-16.3-3.2zM455.1 423.4l10.8-5.8 2.4-.7 2.3-.1-1.7-.2-2.3 .1-2.3 .9-10.9 6.6zM468.9 416.6l2.4 .7 2.7 1.9 8.9 8.9 9.3 7.9 7.8 7.6 4.6 2.9 2 .4 2.3-.4 9.7-5 5.4-1.3 6.6 .4 16.3 3 1.7-1-16.3-2.9-6.6-.5-5.4 1-9.7 4.3-2.4 .3-2.3-.4-4.7-3-7.3-6.6-9.3-7.3-9-8.3-2.7-1.7-2.3-.7z"/><path transform="translate(34.17 -18.93)" d="M391.7 414.4l16.3 3.2 7 2.3 5.4 3.6 9 8.5 3.8 1.9 2.4 0 2.3-.8 8.5-5.5 6.2-3.1 1.7-.8-6.2 2.7-8.5 4.7-2.4 .7-2.3 0-3.9-1.8-8.9-7.8-5.4-3.3-7-2.2-16.3-3.2zM454.3 423.7l11.6-6.6 2.4-.8 2.3-.1-1.7-.2-2.3 .1-2.3 1-11.7 7.4zM468.9 416l2.4 .7 2.7 1.9 8.9 9.3 9.3 8.3 7.8 7.9 2.3 1.9 2.3 1.2 2 .4 2.3-.5 9.7-5.5 5.4-1.3 6.6 .3 16.3 2.9 1.7-.9-16.3-2.9-6.6-.5-5.4 1.2-9.7 4.7-2.4 .4-1.9-.4-4.7-2.8-7.7-7.3-9.3-7.7-9-8.7-2.7-1.7-2.3-.7z"/><path transform="translate(33.21 -18.4)" d="M391.7 414.5l16.3 3.1 7 2.4 5.4 3.7 9 9 3.8 1.9 2.4 0 2.3-.9 8.1-5.7 6.2-3.3 1.7-.9-6.2 3-8.2 4.9-2.3 .8-2.3 0-3.9-1.8-8.9-8.3-5.4-3.4-7-2.3-16.3-3.2zM453.9 423.8l12-7.3 2.4-.8 2.3-.2-1.7-.2-2.3 .2-2.3 1-7.8 5.6-4.3 2.6zM468.9 415.3l2.4 .8 2.7 1.9 8.9 9.7 9.3 8.7 7.8 8.3 2.3 2 2.3 1.3 2 .3 2.3-.5 9.7-5.9 5.4-1.6 6.6 .3 16.3 3 1.7-1-16.3-2.9-6.6-.4-5.4 1.3-9.7 5.2-2.4 .3-1.9-.3-4.7-3-7.7-7.6-9.3-8.1-9-9-2.7-1.9-2.3-.7z"/><path transform="translate(32.24 -17.87)" d="M391.7 414.5l16.3 3.2 7 2.4 5.4 3.9 9 9.3 3.8 2.1 2.4-.1 2.3-1 8.1-6 5.5-3.3 1.6-.8-5.4 2.8-8.1 5.3-2.4 .9-2.3 0-3.9-1.9-8.9-8.7-5.4-3.6-7-2.3-16.3-3.2zM453.1 424.2l4.7-2.6 8.1-5.6 2.4-1 2.3-.1-1.7-.3-2.3 .3-2.3 1-8.2 6.3-4.6 2.8zM468.9 414.6l2.4 .8 2.7 2 8.5 9.7 9.7 9.5 7.8 8.7 2.3 2.1 2.3 1.3 2 .3 2.3-.5 9.7-6.4 5.4-1.7 6.6 .2 16.3 3 1.7-1-16.3-2.9-6.6-.3-5.4 1.4-9.7 5.6-2.4 .4-1.9-.3-2.3-1.2-2.4-1.9-7.7-8.1-9.3-8.3-9-9.5-2.7-1.9-2.3-.7z"/><path transform="translate(31.28 -17.33)" d="M391.7 414.4l16.3 3.3 7 2.4 5.4 4.1 9 9.8 3.8 2.1 2.4-.1 2.3-1.1 7.8-6.1 4.6-3.1 1.7-1-4.7 2.7-7.7 5.5-2.4 .9-2.3 .1-3.9-2-8.9-9-5.4-3.8-7-2.4-16.3-3.2zM452 424.7l5.4-3 8.9-6.5 2.4-.9 2.3 0-1.7-.3-2.3 .1-2.3 1-9 7.2-5.4 3.4zM469.3 414l2.4 1 2.7 2.2 8.1 9.7 9.7 9.9 7.8 9.1 2.3 2.2 2.3 1.3 2 .4 2.3-.6 9.7-6.9 5.4-1.9 6.6 .2 16.3 2.9 1.7-.9-16.3-2.9-6.6-.3-5.4 1.6-9.7 6.1-2.4 .5-1.9-.4-2.3-1.2-2.4-2-7.7-8.5-9.3-8.7-9-9.9-2.3-1.7-2.3-.9z"/><path transform="translate(30.32 -16.8)" d="M391.7 414.5l16.3 3.2 7 2.5 5.4 4.2 9 10.3 3.5 2.1 2.3 .1 2.3-1 10.9-8.9 1.6-1.1-10.8 7.9-2.4 .9-2.3-.1-3.5-2-8.9-9.5-5.4-3.9-7-2.5-16.3-3.2zM450 425.9l7.4-4.4 8.9-6.9 2.4-1 2.3 0-1.7-.3-2.3 .1-2.3 1.1-9 7.6-7.3 4.9zM469.3 413.3l2.4 1 2.7 2.3 8.1 10.1 9.7 10.3 7.8 9.6 2.3 2.2 2.3 1.4 2 .3 2.3-.6 9.7-7.4 2.7-1.3 2.7-.7 6.6 .2 16.3 2.9 1.7-1-16.3-2.9-6.6-.2-5.4 1.7-9.7 6.6-2.4 .5-1.9-.3-2.3-1.3-2.4-2.1-7.7-8.9-9.7-9.5-8.2-9.5-2.7-2.2-2.3-.9z"/><path transform="translate(29.36 -16.27)" d="M391.7 414.5l16.3 3.2 7 2.6 5.4 4.4 8.6 10.4 3.5 2.4 1.9 .3 2.3-.8 6.6-5.6 1.7-1.6-6.6 5.1-2.3 .6-2-.3-3.5-2.2-8.5-9.7-5.4-4.1-7-2.5-16.3-3.2zM445 429.8l3.9-3 8.5-5.5 8.5-7 2.7-1.3 2.4-.1-1.7-.3-2.3 .1-2.7 1.5-8.6 7.7-8.1 5.8-4.3 3.7zM469.3 412.6l2.3 1 2.8 2.4 8.9 11.4 9.3 10.2 7.8 10.1 2.3 2.2 1.9 1.1 2 .3 2.3-.7 9.7-7.8 2.7-1.5 2.7-.7 6.6 .1 16.3 2.9 1.7-1-16.3-2.9-6.6-.1-5.4 1.8-9.7 7.1-2.4 .6-1.9-.4-2.3-1.3-2.4-2.2-7.7-9.3-9.7-9.9-8.2-9.8-2.7-2.3-2.3-1z"/><path transform="translate(28.39 -15.73)" d="M391.7 414.4l16.3 3.3 7 2.7 5.4 4.5 8.6 10.9 3.5 2.5 1.9 .3 2.3-.8 5.5-4.9 1.6-1.7-5.4 4.4-2.3 .7-2-.3-3.5-2.4-8.5-10-5.4-4.3-7-2.6-16.3-3.2zM443.8 431.2l5.1-4.3 8.5-5.8 8.5-7.4 2.8-1.4 2.3-.1-1.7-.3-2.3 .1-2.7 1.5-8.2 7.8-8.9 6.8-5 4.8zM469.3 411.9l2.4 1 2.7 2.5 8.5 11.4 9.7 11.1 7.8 10.4 2.3 2.4 1.9 1.1 2 .3 2.3-.7 9.7-8.4 2.7-1.5 2.7-.9 6.6 .1 16.3 2.8 1.7-.9-16.3-2.9-6.6-.1-2.7 .7-2.7 1.4-9.7 7.5-2.4 .6-1.9-.3-2.3-1.4-2.4-2.3-7.7-9.7-9.7-10.4-8.2-10.1-2.7-2.4-2.3-1z"/><path transform="translate(27.43 -15.2)" d="M391.7 414.5l16.3 3.2 7 2.7 5.4 4.8 8.6 11.3 3.5 2.6 1.9 .3 1.9-.7 5.1-4.5 1.6-1.7-5 4-1.9 .6-2-.3-3.5-2.5-8.5-10.5-5.4-4.4-7-2.6-16.3-3.3zM443 432.5l5.5-5.1 9.3-6.8 8.1-7.5 2.8-1.5 2.3-.1-1.7-.3-2.3 .1-2.7 1.6-8.2 8.2-9.3 7.6-5.4 5.5zM469.3 411.2l2.4 1 2.7 2.6 8.5 11.8 8.5 10 8.2 11.4 3.1 3.4 2.7 1.5 2.3-.2 2.8-1.7 3.8-3.8 1.7-1.7-3.9 3.4-2.7 1.5-2.3 .1-2.7-1.3-3.2-3.2-8.1-10.6-8.5-9.4-8.6-11-2.7-2.5-2.3-1zM516 445.5l3.1-2.7-1.7 1.4-3.1 3zM517.4 444.2l4.3-2.8 5.1-1 5.8 .5 14.3 2.7 1.7-1-14.4-2.6-5.8-.5-5 .8-4.3 2.5z"/><path transform="translate(26.47 -14.67)" d="M391.7 414.5l16.3 3.2 7 2.8 4.7 4.1 8.9 12.2 3.5 3 1.9 .4 2-.5 4.6-4.1 1.7-1.8-4.7 3.7-1.9 .4-2-.4-3.5-2.9-8.9-11.3-4.6-3.8-7-2.7-16.3-3.3zM442.3 433.8l5.4-5.5 9.7-7.6 8.5-8.2 2.8-1.6 2.3-.1-1.7-.3-2.7 .3-2.7 1.9-8.2 8.6-9.7 8.3-5.4 6zM469.3 410.5l2.7 1.3 2.8 2.9 7.7 11.2 8.9 10.9 8.2 11.9 3.1 3.5 2.7 1.5 2.3-.2 2.4-1.4 3.5-3.6 1.6-1.8-3.5 3.2-2.3 1.3-2.3 .2-2.8-1.4-3.1-3.4-8.1-11-8.5-9.8-8.6-11.4-2.7-2.6-2.3-1zM515.2 446.7l4.7-4.3-1.7 1.4-4.6 4.7zM518.2 443.8l4.3-2.6 4.6-.7 5.9 .5 13.9 2.6 1.7-1-14-2.5-5.8-.6-4.7 .6-4.2 2.3z"/><path transform="translate(25.51 -14.13)" d="M391.7 414.4l16.3 3.3 3.9 1.3 3.1 1.6 4.7 4.2 8.9 12.7 3.5 3.1 1.9 .5 2-.6 4.2-3.8 1.7-2-4.3 3.5-1.9 .5-2-.4-3.5-3-8.9-11.8-4.6-4-7-2.7-16.3-3.3zM441.9 434.7l5.8-6.2 9.7-8 8.1-8.3 2.8-1.8 2.7-.4-1.7-.3-2.7 .4-2.7 2-8.2 9-9.7 8.7-5.8 6.9zM469.3 409.7l2.7 1.4 2.8 3 7.7 11.6 8.9 11.3 8.2 12.3 3.1 3.7 2.3 1.4 2.3 0 2.4-1.3 3.1-3.1 1.6-1.9-3.1 2.8-2.3 1.2-2.3 0-2.4-1.4-3.1-3.4-8.1-11.6-8.5-10.1-8.2-11.4-2.7-2.8-2.7-1.4zM514.4 448.1l6.2-6-1.6 1.3-6.2 6.6zM519 443.4l3.9-2.2 4.6-.7 5.8 .6 13.6 2.4 1.7-.9-13.6-2.4-5.8-.7-4.7 .6-3.9 2z"/><path transform="translate(24.54 -13.6)" d="M391.7 414.5l16.3 3.2 3.9 1.3 3.1 1.7 4.7 4.3 8.9 13.2 3.5 3.3 1.5 .4 2-.4 4.2-3.8 1.7-2-4.3 3.5-1.9 .3-1.6-.4-3.5-3-8.9-12.4-4.6-4.1-3.1-1.6-3.9-1.2-16.3-3.3zM441.5 435.7l6.2-6.9 9.7-8.5 8.2-8.7 2.7-1.9 2.7-.4-1.7-.3-2.7 .4-2.7 2.1-8.2 9.4-9.7 9.2-6.2 7.6zM469.3 409l2.7 1.5 2.8 3 7.7 11.9 9.3 12.3 7.8 12.3 2.7 3.4 2.3 1.7 2.4 .3 2.3-1.2 3.1-3.2 1.7-1.9-3.2 2.8-2.3 1.1-2.3-.2-2.3-1.6-2.8-3.3-7.7-11.5-9.3-11.5-7.8-11.3-2.7-2.9-2.7-1.4zM514.1 449.1l6.9-7.1-1.6 1.3-7 7.7zM519.4 443.3l3.9-2.1 4.6-.7 5.8 .6 13.2 2.5 1.7-1-19-3-4.7 .5-3.9 1.9z"/><path transform="translate(23.58 -13.07)" d="M391.7 414.5l16.3 3.2 3.9 1.3 3.1 1.8 4.7 4.4 8.9 13.8 3.5 3.3 1.5 .4 2-.4 3.9-3.5 1.6-2-3.9 3.2-1.9 .4-1.6-.5-3.5-3.1-8.9-12.9-4.6-4.2-3.1-1.6-3.9-1.3-16.3-3.3zM441.1 436.8l6.6-7.8 9.7-8.9 8.2-9.1 2.7-2 2.7-.4-1.7-.3-2.7 .5-2.7 2.1-8.2 9.8-9.7 9.6-6.5 8.5zM469.3 408.3l2.7 1.5 2.8 3.1 7.7 12.3 9.3 12.7 7.8 12.7 2.7 3.6 2.3 1.8 2.4 .2 2.3-1.3 2.7-2.8 1.7-2-2.8 2.6-2.3 1.1-2.3-.2-2.3-1.6-2.8-3.4-7.7-12-9.3-11.9-7.8-11.7-2.7-3-2.7-1.4zM513.7 450.1l5-5.8 3.1-2.6-1.6 1.2-3.1 2.9-5.1 6.3zM520.2 442.9l3.8-1.9 4.3-.4 18.6 3 1.7-1-18.6-3-4.3 .4-3.9 1.7z"/><path transform="translate(22.62 -12.53)" d="M391.7 414.4l16.3 3.3 3.9 1.4 3.1 1.7 4.7 4.7 8.9 14.2 3.5 3.4 1.5 .5 1.6-.3 1.9-1.3 2-2.1 1.6-2-3.9 3.1-1.5 .2-1.6-.4-3.5-3.3-8.9-13.3-4.6-4.4-3.1-1.7-3.9-1.3-16.3-3.3zM440.7 437.9l7-8.7 9.7-9.3 8.1-9.5 2.8-2.1 2.7-.4-1.7-.3-2.7 .5-2.7 2.2-8.2 10.2-9.3 9.6-7.3 9.8zM469.3 407.6l2.7 1.5 2.8 3.2 8.1 13.3 9.3 13.1 7.4 12.6 2.7 3.7 2.3 1.8 2 .3 2.3-1.1 2.7-2.8 1.7-2-2.7 2.5-2.4 1-1.9-.3-2.3-1.7-2.8-3.5-7.7-12.4-9.3-12.3-7.8-12.1-2.7-3.1-2.7-1.4zM513.3 451.2l5.4-6.5 3.5-3.1-1.7 1.2-3.5 3.3-5.4 7.1zM520.5 442.8l3.5-1.7 4.3-.5 18.6 2.9 1.7-.9-18.6-3-4.3 .4-3.5 1.6z"/><path transform="translate(21.66 -12)" d="M391.7 414.5l16.3 3.2 3.9 1.4 3.1 1.8 4.7 4.8 8.9 14.7 3.5 3.6 1.5 .4 1.6-.3 1.9-1.3 2-2.2 1.6-2.1-1.9 2.1-2 1.2-1.5 .3-1.6-.5-3.5-3.4-8.9-13.8-4.6-4.5-3.1-1.8-3.9-1.3-16.3-3.3zM440.7 438.5l7-9 9.7-9.8 8.1-9.9 2.8-2.2 2.7-.4-1.7-.3-2.7 .5-2.7 2.3-8.2 10.6-9.3 10-7.3 10.3zM469.3 406.9l2.7 1.5 2.8 3.4 8.1 13.6 9.3 13.5 7.4 13 2.7 3.9 2.3 1.8 2 .3 2.3-1.1 2.3-2.5 1.7-2-2.3 2.2-2.4 1.1-1.9-.3-2.3-1.8-2.8-3.6-7.7-12.9-9.3-12.7-7.8-12.5-2.7-3.1-2.7-1.5zM512.9 452.3l5.8-7.3 3.9-3.5-1.7 1.2-3.9 3.8-5.8 7.8zM520.9 442.7l3.5-1.7 4.3-.4 18.2 3 1.7-1-18.3-2.9-4.2 .3-3.5 1.5z"/><path transform="translate(20.69 -11.47)" d="M391.7 414.5l15.5 3.1 6.3 2.4 3.1 2.3 3.1 3.6 8.1 14 3.1 4 2 1.2 1.9 0 1.9-1.2 2-2.2 1.6-2-1.9 1.9-1.9 1.1-2 .1-1.9-1.2-3.1-3.8-8.2-13.2-3.1-3.4-3.1-2.2-6.2-2.4-15.5-3.1zM440.3 439.7l7.8-10.5 9.3-9.6 8.2-10.4 2.7-2.2 2.7-.5-1.7-.3-2.7 .6-2.7 2.4-8.2 10.9-9.3 10.4-7.7 11.2zM469.3 406.2l2.7 1.6 2.8 3.4 8.1 14 9.3 13.9 7.4 13.5 2.7 4 2.3 1.9 2 .3 1.9-1 2.3-2.3 1.7-2.1-2.3 2.2-2 .8-1.9-.3-2.3-1.8-2.8-3.7-7.3-12.8-9.3-13.2-8.2-13.3-2.7-3.3-2.7-1.5zM512.5 453.4l6.2-8.1 3.9-3.6-1.7 1.2-3.8 3.9-6.3 8.7zM520.9 442.9l3.5-1.8 4.3-.5 18.2 3 1.7-1-18.3-2.9-4.2 .4-3.5 1.6z"/><path transform="translate(19.73 -10.93)" d="M391.7 414.4l15.5 3.2 6.3 2.4 3.1 2.4 3.1 3.7 8.1 14.5 3.1 4.1 2 1.2 1.5 .1 1.9-1 2-2.1 1.6-2.1-1.9 1.9-1.9 1-1.6-.1-1.9-1.2-3.1-3.9-8.2-13.7-3.1-3.5-3.1-2.3-6.2-2.4-15.5-3.1zM439.9 440.8l8.2-11.4 9.3-10 8.2-10.7 2.7-2.4 2.7-.5-1.7-.3-2.7 .6-2.7 2.5-8.2 11.4-9.3 10.7-8.1 12.2zM469.3 405.5l2.7 1.6 2.8 3.5 8.1 14.4 9.3 14.3 7.4 13.9 2.7 4.1 2.3 2 2 .3 1.9-1 2.3-2.5 1.7-2-2.3 2.3-2 .8-1.9-.2-2.3-1.9-2.8-3.9-7.3-13.2-9.3-13.6-8.2-13.7-2.7-3.4-2.7-1.5zM512.5 454.1l6.6-8.9 3.9-3.6-1.7 1.1-3.9 3.9-6.6 9.5zM521.3 442.7l3.5-1.6 4.3-.5 17.8 2.9 1.7-.9-17.9-2.9-4.2 .3-3.5 1.6z"/><path transform="translate(18.77 -10.4)" d="M391.7 414.5l15.5 3.1 6.6 2.7 3.1 2.6 2.8 3.5 8.1 14.8 3.1 4.3 2 1.2 1.5 .1 1.6-.8 1.9-1.9 1.7-2.1-2 1.8-1.5 .7-1.6-.1-1.9-1.2-3.1-4-8.2-14.1-2.7-3.3-3.1-2.5-6.6-2.7-15.5-3.1zM439.6 442l8.5-12.3 9.3-10.5 8.1-11.1 2.8-2.4 2.7-.6-1.7-.2-2.7 .6-2.7 2.6-8.2 11.7-9.3 11.1-8.5 13.2zM469.3 404.9l2.7 1.6 2.8 3.6 8.1 14.8 8.9 14 7.8 14.9 2.7 4.3 1.9 1.8 2 .5 1.9-.7 2.4-2.4 1.6-2.1-2.3 2.2-2 .7-1.9-.5-2.3-2.2-9.7-17.2-9.3-13.9-8.2-14.2-2.7-3.4-2.7-1.6zM512.1 455.2l7-9.7 4.3-4.1-1.7 1.2-4.3 4.3-6.9 10.4zM521.7 442.6l3.5-1.6 3.9-.3 17.8 2.9 1.7-1-17.9-2.9-3.8 .3-3.5 1.4z"/><path transform="translate(17.81 -9.87)" d="M391.7 414.5l15.5 3.1 3.5 1.1 3.1 1.7 3.1 2.7 2.8 3.5 8.1 15.3 3.1 4.4 1.9 1.2 1.6 .1 1.6-.8 1.9-2.1 1.6-2-1.9 1.9-1.5 .7-1.6-.1-1.9-1.2-3.1-4.2-8.2-14.5-2.7-3.4-3.1-2.5-6.6-2.8-15.5-3.1zM439.5 442.7l8.6-12.8 9.3-10.9 7.8-11 2.7-2.7 2.7-.9-1.7-.2-2.7 .9-2.7 2.9-7.8 11.6-9.3 11.5-8.5 13.6zM468.9 404.2l2.7 1.3 3.2 4.1 8.1 15.1 9.3 15 9.7 18.6 2 2.1 1.9 .8 1.9-.5 2.4-2.2 1.6-2.1-2.3 2-2 .5-1.9-.8-1.9-2-9.7-17.6-9.3-14.4-8.2-14.5-3.1-3.9-2.7-1.3zM511.7 456.4l7.8-11.1 4.2-4-1.6 1.1-4.3 4.2-7.7 11.9zM522.1 442.4l3.5-1.4 3.9-.3 17.4 2.9 1.7-1-17.5-2.8-3.9 .2-3.5 1.3z"/><path transform="translate(16.84 -9.33)" d="M391.7 414.4l15.5 3.2 3.5 1.1 3.1 1.7 3.1 2.8 2.8 3.6 8.1 15.7 2.7 4.1 2 1.5 1.5 .3 1.6-.6 1.9-1.9 1.7-2.1-2 1.8-1.5 .5-1.6-.2-1.9-1.5-2.7-3.9-8.2-15-2.7-3.5-3.1-2.6-6.6-2.8-15.5-3.1zM439.2 443.8l8.9-13.7 9.3-11.3 7.8-11.3 2.7-2.8 2.7-1-1.7-.2-2.7 1.1-2.7 2.9-7.8 11.9-9.3 11.9-8.9 14.6zM468.9 403.5l2.8 1.4 3.1 4.2 8.1 15.4 9.3 15.4 9.7 19.1 2 2.1 1.9 .9 1.9-.6 2.4-2.3 1.6-2-2.3 2.1-1.9 .5-2-.8-1.9-2-9.7-18.2-9.3-14.8-8.2-14.9-3.1-4-2.7-1.3zM511.7 457.1l7.8-11.6 4.3-4.1-1.7 1.1-4.3 4.4-7.7 12.2zM522.1 442.5l3.5-1.5 3.9-.3 17.4 2.8 1.7-.9-17.5-2.8-3.9 .2-3.4 1.4z"/><path transform="translate(15.88 -8.8)" d="M391.7 414.5l15.5 3.1 3.5 1.2 3.1 1.7 3.1 2.8 2.8 3.7 8.1 16.1 2.7 4.2 2 1.6 1.5 .2 1.6-.6 1.9-2 1.7-2-2 1.8-1.5 .6-1.6-.2-1.9-1.6-2.7-4-8.2-15.4-2.7-3.5-3.1-2.7-3.1-1.7-3.5-1.1-15.5-3.2zM439.2 444.5l8.9-14.2 9.3-11.7 7.8-11.6 2.7-2.9 2.7-1-1.7-.1-2.7 1-2.7 3.1-7.8 12.2-9.3 12.2-8.9 15zM468.9 403l2.8 1.3 3.1 4.3 8.1 15.8 8.9 15 10.1 20.3 2 2.2 1.9 .8 1.9-.6 2-1.8 1.6-2.1-1.9 1.8-1.9 .5-2-.8-1.9-2.1-9.7-18.7-9.3-15.2-8.2-15.2-3.1-4.1-2.7-1.3zM511.3 458.2l8.2-12.4 2.3-2.7 2.3-1.8-1.6 1.1-2.3 1.9-2.4 2.8-8.1 13.2zM522.5 442.4l3.5-1.4 3.9-.3 17 2.9 1.7-1-17.1-2.8-3.9 .2-3.5 1.3z"/><path transform="translate(14.92 -8.27)" d="M391.7 414.5l15.5 3.1 3.5 1.2 3.1 1.7 3.1 2.9 2.8 3.8 8.1 16.5 2.7 4.3 1.6 1.4 1.5 .5 1.6-.5 1.9-1.7 1.7-2.1-2 1.7-1.5 .4-1.6-.5-1.5-1.3-2.7-4.2-8.2-15.8-2.7-3.6-3.1-2.8-3.1-1.7-3.5-1.1-15.5-3.2zM438.8 445.6l9.3-15.1 9.3-12 7.8-12 2.7-3 2.7-1-1.7-.1-2.7 1.1-2.7 3.1-7.8 12.5-9.3 12.6-9.3 16zM468.9 402.4l2.8 1.4 3.1 4.3 8.1 16.1 8.9 15.4 10.1 20.7 2 2.3 1.9 .8 1.9-.6 2-1.9 1.6-2-1.9 1.8-1.9 .6-2-.9-1.9-2.1-9.7-19.2-9.3-15.5-8.2-15.6-3.1-4.2-2.7-1.3zM511.3 458.9l8.2-12.9 2.3-2.7 2.3-1.9-1.6 1.1-2.3 2-2.4 2.9-8.1 13.5zM522.5 442.5l3.5-1.5 3.9-.2 17 2.8 1.7-1-17.1-2.8-3.9 .2-3.5 1.4z"/><path transform="translate(13.96 -7.73)" d="M391.7 414.4l15.5 3.2 3.5 1.2 3.1 1.8 3.1 2.9 2.8 3.9 8.1 16.8 2.7 4.4 1.6 1.4 1.5 .5 1.6-.4 1.9-1.8 1.7-2-2 1.7-1.5 .4-1.6-.5-1.5-1.3-2.7-4.3-8.2-16.2-2.7-3.7-3.1-2.8-3.1-1.8-3.5-1.1-15.5-3.2zM438.8 446.3l9.3-15.6 9.3-12.4 7.8-12.3 2.7-3.1 2.7-1-1.7-.1-2.7 1.1-2.7 3.3-7.8 12.8-9.3 12.9-9.3 16.4zM468.9 401.8l2.7 1.4 3.2 4.4 8.1 16.5 8.9 15.6 10.1 21.2 2 2.3 1.5 .8 1.9-.3 2-1.7 1.6-2-1.9 1.6-1.9 .3-1.6-.8-1.9-2.2-10.1-20.4-8.9-15.1-8.2-15.9-3.1-4.2-2.7-1.4zM510.9 460l9-14.3 2.3-2.7 2.3-1.8-1.6 1.1-2.4 1.9-2.3 2.8-8.9 15zM522.9 442.3l3.1-1.3 3.8-.2 17.1 2.7 1.7-.9-17.1-2.8-3.9 .3-3.1 1.1z"/><path transform="translate(12.99 -7.2)" d="M391.7 414.5l15.9 3.2 3.5 1.3 3.1 1.9 3.1 3.2 2.8 4.1 7.7 16.6 2.7 4.4 1.6 1.5 1.5 .5 1.6-.5 1.5-1.4 1.7-1.9-1.6 1.3-1.5 .4-1.6-.5-1.5-1.4-2.7-4.3-7.8-15.9-2.7-4-3.1-3.1-3.1-1.9-3.5-1.2-15.9-3.3zM438.4 447.4l2.7-4 7.4-13.2 8.9-12 7.8-12.6 2.7-3.2 2.7-1.1-1.7 0-2.7 1.2-2.7 3.2-7.8 13.1-8.9 12.6-7.3 13.8-2.8 4.1zM468.9 401.3l2.8 1.5 3.1 4.4 8.1 16.7 8.9 16 10.1 21.6 2 2.4 1.5 .8 2-.4 1.9-1.7 1.6-2-1.9 1.7-1.9 .3-1.6-.8-1.9-2.2-10.1-20.9-8.9-15.4-8.2-16.3-3.1-4.3-2.7-1.4zM510.9 460.6l9-14.6 2.3-2.8 2.3-1.9-1.6 1.1-2.4 1.9-2.3 2.9-8.9 15.4zM522.9 442.4l3.1-1.3 3.9-.3 17 2.8 1.7-1-17.1-2.8-3.9 .3-3.1 1.2z"/><path transform="translate(12.03 -6.67)" d="M391.7 414.5l15.9 3.2 3.5 1.3 3.1 2 3.1 3.2 2.8 4.2 7.7 16.9 2.7 4.5 1.6 1.5 1.5 .5 1.6-.5 1.5-1.4 1.7-1.9-1.6 1.3-1.5 .5-1.6-.5-1.5-1.4-2.7-4.4-7.8-16.3-2.7-4.1-3.1-3.1-3.1-1.9-3.5-1.3-15.9-3.3zM438.4 448l2.7-4.1 7.4-13.5 8.9-12.4 7.8-12.9 2.7-3.2 2.3-1.1-1.6 0-2.4 1.2-2.7 3.4-7.8 13.3-8.9 12.9-7.3 14.1-2.8 4.2zM468.6 400.8l1.5 .3 1.6 1.2 3.1 4.5 8.1 17 8.9 16.2 10.1 22.1 2 2.4 1.5 .8 1.6-.2 1.9-1.5 1.7-1.9-2 1.5-1.5 .1-1.6-.8-1.9-2.3-10.1-21.4-8.9-15.7-8.2-16.5-3.1-4.4-1.5-1.1-1.6-.3zM510.6 461.7l2.3-3.3 7-12.2 2.3-2.9 2.3-1.9-1.6 1.1-2.4 1.9-2.3 3-7 12.8-2.3 3.4zM522.9 442.5l3.1-1.4 3.9-.3 17 2.8 1.7-1-17.1-2.8-3.9 .3-3.1 1.3z"/><path transform="translate(11.07 -6.13)" d="M391.7 414.4l15.9 3.3 3.5 1.3 3.1 2 3.1 3.3 2.7 4.3 7.4 16.3 2.7 4.9 1.6 1.8 1.5 .7 1.6-.2 1.5-1.3 1.7-1.8-1.6 1.2-1.5 .2-1.6-.7-1.5-1.7-2.7-4.8-7.4-15.9-2.7-4.1-3.1-3.2-3.1-1.9-3.5-1.3-15.9-3.3zM438 449l2.7-3.9 7.8-14.5 8.9-12.7 7.8-13.2 2.7-3.3 2.3-1.1-1.7 .1-2.3 1.2-2.7 3.4-7.8 13.6-8.9 13.1-7.7 15.1-2.8 4zM468.5 400.4l1.6 .3 1.6 1.1 3.1 4.6 8.1 17.3 8.9 16.4 10.1 22.5 2 2.4 1.5 .9 1.6-.2 1.9-1.6 1.7-1.9-2 1.6-1.5 .1-1.6-.8-1.9-2.3-10.1-21.8-8.9-16-8.2-16.8-3.1-4.5-1.5-1.1-1.6-.3zM510.6 462.2l2.3-3.3 7-12.5 2.3-3 2.7-2.2-1.6 1.1-2.8 2.3-2.3 3-7 13-2.3 3.5zM523.3 442.3l3.1-1.3 3.8-.2 16.7 2.7 1.7-.9-16.7-2.7-3.9 .2-3.1 1.1z"/><path transform="translate(10.11 -5.6)" d="M391.7 414.5l15.9 3.2 3.5 1.3 3.1 2 3.1 3.4 2.7 4.3 7.4 16.6 2.7 5 1.6 1.8 1.5 .8 1.6-.3 1.5-1.3 1.7-1.8-1.6 1.3-1.5 .2-1.6-.7-1.5-1.8-2.7-4.8-7.4-16.2-2.7-4.2-3.1-3.3-3.1-1.9-3.5-1.3-15.9-3.3zM438 449.5l2.7-3.9 7.8-14.9 8.9-13 7.8-13.4 2.7-3.3 2.3-1.2-1.7 .2-2.3 1.2-2.7 3.5-7.8 13.8-8.9 13.3-7.7 15.4-2.8 4.1zM468.5 400l1.6 .3 1.5 1.1 3.2 4.7 8.1 17.5 8.9 16.7 10.1 22.8 2 2.4 1.5 .9 1.6-.2 1.5-1.2 1.7-1.8-1.6 1.2-1.5 .1-1.6-.8-1.9-2.4-10.1-22.2-8.9-16.3-8.2-17-3.1-4.6-1.5-1.1-1.6-.3zM510.2 463.2l2.7-3.8 7-12.8 2.3-3 2.7-2.3-1.6 1-2.8 2.4-2.3 3.1-7 13.2-2.7 4zM523.3 442.3l3.1-1.2 3.8-.3 16.7 2.8 1.7-1-16.7-2.7-3.9 .2-3.1 1.2z"/><path transform="translate(9.14 -5.07)" d="M391.7 414.5l15.9 3.2 3.5 1.4 3.1 2 3.1 3.3 2.8 4.5 7.3 16.8 2.7 5.1 1.6 1.8 1.5 .7 1.2-.1 1.6-1 1.6-1.7-1.5 1-1.2 .1-1.6-.8-1.5-1.7-2.7-5-7.4-16.4-2.7-4.3-3.1-3.3-3.1-2-3.5-1.3-15.9-3.3zM437.6 450.5l3.1-4.5 7.8-15.2 8.9-13.2 7.8-13.6 2.7-3.5 2.3-1.1-1.6 .2-2.4 1.2-2.7 3.6-7.8 14-8.9 13.6-7.7 15.6-3.1 4.6zM468.6 399.6l1.5 .3 1.6 1.2 3.1 4.7 8.1 17.7 8.9 16.9 10.1 23.1 2 2.5 1.5 .9 1.6-.2 1.5-1.2 1.7-1.8-1.6 1.2-1.5 .2-1.6-.8-1.9-2.5-10.1-22.5-8.9-16.6-8.2-17.3-3.1-4.6-1.5-1.2-1.6-.2zM510.2 463.7l2.7-3.9 7.4-13.6 2.3-2.9 2.7-2.2-1.7 1-2.7 2.2-2.3 3-7.4 14.1-2.7 4.1zM523.6 442.1l3.2-1.1 3.8-.2 16.3 2.8 1.7-1-16.3-2.7-3.9 .2-3.1 1z"/><path transform="translate(8.18 -4.53)" d="M391.7 414.4l15.9 3.3 3.5 1.4 3.1 2 3.1 3.4 2.8 4.5 7.3 17 2.7 5.2 1.6 1.8 1.5 .8 1.2-.1 1.6-1.1 1.6-1.7-1.5 1.1-1.2 .1-1.6-.8-1.5-1.8-2.7-5-7.4-16.7-2.7-4.3-3.1-3.4-3.1-2-3.5-1.3-15.9-3.3zM437.6 450.9l3.1-4.5 7.8-15.5 8.9-13.4 7.8-13.9 2.3-3.1 2.3-1.5-1.6 .3-2.4 1.6-2.3 3.2-7.8 14.2-8.9 13.7-7.7 15.9-3.1 4.7zM468.2 399.3l1.5 .1 1.6 1 3.5 5.1 8.1 17.9 8.9 17.1 10.1 23.4 1.6 2.2 1.5 1.1 1.6 0 1.5-.9 1.7-1.7-1.6 1-1.5-.1-1.6-1.1-1.5-2.1-10.1-22.9-8.9-16.8-8.2-17.5-3.5-5.1-1.5-.9-1.6-.1zM509.8 464.6l2.7-3.7 7.8-14.6 2.3-3 2.7-2.1-1.7 1-2.7 2.2-2.3 3.1-7.8 14.9-2.7 3.9zM523.6 442.2l3.2-1.2 3.8-.2 16.3 2.7 1.7-.9-16.3-2.7-3.9 .2-3.1 1.1z"/><path transform="translate(7.22 -4)" d="M391.7 414.5l15.9 3.2 3.5 1.4 3.1 2 3.1 3.5 2.7 4.5 7.4 17.2 2.7 5.2 1.6 1.9 1.5 .8 1.2-.2 1.6-1 1.6-1.6-1.5 1-1.2 .2-1.6-.8-1.5-1.8-2.7-5.1-7.4-16.9-2.7-4.5-3.1-3.3-3.1-2.1-3.5-1.3-15.9-3.3zM437.6 451.4l3.1-4.6 7.8-15.7 8.9-13.7 7.8-14 2.3-3.2 2.3-1.5-1.6 .3-2.4 1.6-2.3 3.2-7.8 14.4-8.9 13.9-7.7 16.1-3.1 4.8zM468.2 399l1.5 .1 1.6 1 3.5 5.2 8.1 18 8.9 17.3 10.1 23.7 1.6 2.1 1.5 1.2 1.6 0 1.5-1 1.7-1.5-1.6 .9-1.5 0-1.6-1.2-1.5-2.1-10.1-23.2-8.9-17-8.2-17.7-3.5-5.1-1.5-1-1.6 0zM509.8 465.1l2.7-3.8 7.8-14.8 2.3-3.1 2.7-2.2-1.7 1-2.7 2.3-2.3 3.1-7.8 15.2-2.7 3.8zM523.6 442.2l3.1-1.2 3.9-.2 16.3 2.8 1.7-1-16.3-2.7-3.9 .2-3.1 1.1z"/><path transform="translate(6.26 -3.47)" d="M391.7 414.5l16.3 3.4 3.5 1.4 3.1 2.2 2.7 3.1 2.7 4.6 7.4 17.4 2.7 5.2 2.7 2.6 1.2 .1 1.6-.9 1.6-1.5-1.5 .9-1.2-.1-2.7-2.5-2.7-5.2-7.4-17.1-2.7-4.5-2.7-3.1-3.1-2.1-3.5-1.5-16.3-3.4zM437.2 452.1l3.1-4.3 8.2-16.6 8.9-13.9 7.8-14.2 2.3-3.2 2.3-1.6-1.6 .5-2.4 1.6-2.3 3.2-7.8 14.5-8.5 13.4-8.5 17.7-3.1 4.4zM468.2 398.8l1.5 0 1.6 1 3.5 5.2 8.1 18.2 8.9 17.5 10.1 23.9 1.6 2.1 1.5 1.2 1.6 .1 1.5-1.1 1.7-1.4-1.6 .9-1.5 0-1.6-1.1-1.5-2.2-10.1-23.5-8.9-17.2-8.2-17.9-3.5-5.1-1.5-1-1.6-.1zM509.8 465.5l2.7-3.9 7.8-15 2.3-3.1 2.7-2.2-1.7 .9-2.7 2.3-2.3 3.2-7.8 15.3-2.7 3.9zM523.6 442.2l3.1-1.2 3.9-.1 16.3 2.7 1.7-1-16.3-2.7-3.9 .2-3.1 1.2z"/><path transform="translate(5.29 -2.93)" d="M391.7 414.4l16.3 3.5 3.5 1.4 3.1 2.2 2.7 3.2 2.8 4.6 7.3 17.5 2.7 5.3 2.8 2.6 1.1 0 1.6-.8 1.6-1.4-1.5 .8-1.2-.1-2.7-2.5-2.7-5.2-7.4-17.3-2.7-4.5-2.7-3.1-3.1-2.2-3.5-1.5-16.3-3.4zM437.2 452.5l3.1-4.4 8.6-17.5 8.5-13.4 7.8-14.3 2.3-3.3 2.3-1.6-1.6 .6-2.4 1.6-2.3 3.3-7.8 14.6-8.5 13.5-8.5 17.8-3.1 4.5zM468.2 398.6l1.5 0 1.6 1 3.5 5.3 8.1 18.3 8.9 17.5 7.4 18.4 2.7 5.7 1.6 2.2 1.5 1.2 1.2 .1 1.5-.8 1.7-1.4-1.6 .8-1.1-.2-1.6-1.1-1.5-2.2-10.1-23.7-8.9-17.4-8.2-18-3.5-5.2-1.5-1-1.6-.1zM509.4 466.1l3.1-4.2 7.8-15.2 2.3-3.1 2.7-2.3-1.7 1-2.7 2.3-2.3 3.1-7.8 15.5-3.1 4.3zM523.6 442.3l3.2-1.2 3.8-.3 16.3 2.7 1.7-.9-16.3-2.7-3.9 .2-3.1 1.2z"/><path transform="translate(4.33 -2.4)" d="M391.7 414.5l16.3 3.4 3.5 1.4 3.1 2.2 2.7 3.2 2.8 4.6 9.7 22.4 2.7 3 1.1 .3 1.6-.6 1.6-1.3-1.5 .6-1.2-.3-2.7-3-9.7-22.1-2.7-4.6-2.7-3.1-3.1-2.2-3.5-1.5-16.3-3.4zM436.8 453.1l3.1-4 8.6-17.8 8.9-14.1 7.8-14.5 2.3-3.3 1.9-1.5-1.6 .6-2 1.5-2.3 3.3-7.8 14.7-8.9 14.3-8.5 18-3.1 4.1zM467.8 398.5l1.5-.1 2 1.1 3.5 5.2 8.1 18.4 8.9 17.7 7.4 18.5 2.7 5.7 1.6 2.2 1.5 1.2 1.2 .1 1.5-.7 1.7-1.4-1.6 .8-1.1-.1-1.6-1.2-1.5-2.2-2.7-5.6-7.4-18.3-8.9-17.5-8.2-18.2-3.5-5.2-1.9-1.1-1.6 .1zM509.4 466.4l3.1-4.2 7.8-15.4 2.7-3.6 2.7-2.1-1.7 1-2.7 2.1-2.7 3.6-7.8 15.6-3.1 4.4zM524 442.1l3.1-1.1 3.5-.1 16.3 2.7 1.7-1-16.3-2.7-3.5 .2-3.1 1z"/><path transform="translate(3.37 -1.87)" d="M391.7 414.5l16.3 3.4 3.5 1.4 3.1 2.3 2.7 3.1 2.7 4.7 9.7 22.4 2.8 3.1 1.1 .3 1.6-.6 1.6-1.2-1.5 .5-1.2-.3-2.7-3-9.7-22.2-2.7-4.6-2.7-3.2-3.1-2.2-3.5-1.5-16.3-3.4zM436.8 453.4l3.1-4.1 8.6-17.9 8.9-14.3 7.8-14.6 2.3-3.3 1.9-1.5-1.6 .7-2 1.5-2.3 3.3-7.8 14.8-8.9 14.4-8.5 18.1-3.1 4.1zM467.8 398.4l1.5-.2 2 1.1 3.5 5.3 8.1 18.5 8.9 17.7 7.4 18.6 2.7 5.8 2.7 3.2 1.2 .3 1.5-.5 1.7-1.2-1.5 .5-1.2-.4-2.7-3.1-2.7-5.7-7.4-18.5-8.9-17.6-8.2-18.3-3.5-5.2-1.9-1.1-1.6 .1zM509 467l3.1-3.9 8.5-16.9 2.4-2.9 2.7-2.2-1.7 1-2.7 2.1-2.3 3-8.5 17.1-3.2 3.9zM524 442.1l3.1-1.1 3.5-.1 16.3 2.7 1.7-1-16.3-2.7-3.5 .2-3.1 1z"/><path transform="translate(2.41 -1.33)" d="M391.7 414.4l16.3 3.5 3.5 1.4 3.1 2.3 2.7 3.2 2.7 4.6 9.7 22.5 2.8 3.1 1.1 .3 1.6-.6 1.6-1.2-1.5 .6-1.2-.3-2.7-3-9.7-22.4-2.7-4.6-2.7-3.2-3.1-2.2-3.5-1.5-16.3-3.4zM436.8 453.5l3.1-4 8.6-18.1 8.9-14.3 7.8-14.7 2.3-3.3 1.9-1.5-1.6 .7-2 1.5-2.3 3.4-7.8 14.8-8.9 14.4-8.5 18.2-3.1 4.1zM467.8 398.3l1.5-.2 2 1.1 3.5 5.4 8.1 18.5 8.9 17.7 7.4 18.7 2.7 5.8 2.7 3.2 1.2 .3 1.5-.5 1.7-1.1-1.6 .5-1.1-.4-2.7-3.1-2.7-5.8-7.4-18.5-8.9-17.7-8.2-18.4-3.5-5.3-1.9-1.1-1.6 .2zM509 467.2l3.1-3.9 8.5-17 2.4-3 2.7-2.2-1.7 1-2.7 2.1-2.3 3.1-8.6 17-3.1 4zM524 442.1l3.1-1.1 3.5-.1 16.3 2.6 1.7-.9-16.3-2.7-3.5 .2-3.1 1z"/><path transform="translate(1.44 -0.8)" d="M391.7 414.5l16.3 3.4 3.5 1.4 3.1 2.3 2.7 3.2 2.8 4.6 9.7 22.6 2.7 3 1.1 .3 1.2-.3 1.7-1.1-1.2 .4-1.2-.3-2.7-3.1-9.7-22.4-2.7-4.7-2.7-3.2-3.1-2.2-3.5-1.5-16.3-3.4zM436.5 453.9l1.5-1.3 1.9-3 8.6-18.1 8.9-14.4 7.8-14.8 1.9-2.9 1.9-1.7-1.6 .8-2 1.8-1.9 2.8-7.8 14.9-8.9 14.4-8.5 18.2-2 3-1.5 1.4zM467.4 398.5l1.5-.4 1.6 .5 3.1 3.8 9.3 20.6 8.9 17.8 9.3 23.1 3.1 4.4 1.6 .6 1.6-.5 1.6-1.1-1.5 .5-1.6-.6-3.1-4.3-9.3-23-8.9-17.7-9.3-20.7-3.2-3.7-1.5-.6-1.6 .5zM509 467.3l3.1-3.9 8.5-17.1 2.4-3 2.7-2.1-1.7 .9-2.7 2.2-2.3 3-8.5 17.1-3.1 4zM524 442.1l3.1-1.1 3.5-.1 16.3 2.7 1.7-1-16.3-2.7-3.5 .2-3.1 1.1z"/><path transform="translate(0.48 -0.27)" d="M392.4 414.1l16.3 3.4 3.5 1.4 3.1 2.3 2.7 3.2 2.7 4.6 9.7 22.6 2.8 3 1.1 .3 1.2-.3 1-.6-1.2 .4-1.2-.3-2.7-3.1-9.7-22.5-2.7-4.7-2.7-3.1-3.1-2.3-3.5-1.4-16.3-3.5zM436.5 454l1.5-1.4 1.9-2.9 8.6-18.2 8.9-14.5 7.8-14.8 1.9-2.8 1.9-1.8-.9 .5-2 1.8-1.9 2.9-7.8 14.8-8.9 14.4-8.5 18.2-2 3-1.5 1.4zM468.1 398.1l1.5-.4 1.6 .5 1.5 1.5 2 3 8.9 20 8.9 17.8 9.3 23 3.1 4.4 1.2 .5 1.6-.2 .9-.6-1.5 .3-1.2-.6-3.1-4.4-9.3-23-8.9-17.8-9-20-1.9-2.9-1.6-1.5-1.5-.5-1.6 .4zM508.6 467.6l1.6-1.3 1.9-2.8 8.5-17.1 2.4-3.1 2.7-2.1-1 .5-2.7 2.2-2.3 3-8.6 17.1-1.9 2.9-1.5 1.3zM524.7 441.7l3.1-1.1 3.5-.1 16.3 2.7 1-.6-16.3-2.7-3.5 .2-3.1 1.1z"/></g>
<g text-anchor="middle" font-size="12"><text x="398.9" y="493.3">12</text><text x="416.7" y="496.6">9</text><text x="434.5" y="500.0">6</text><text x="452.2" y="503.3">3</text><text x="470.0" y="506.6">0</text><text x="485.8" y="510.0">-3</text><text x="503.5" y="513.3">-6</text><text x="521.3" y="516.6">-9</text><text x="539.1" y="520.0">-12</text><text x="561.7" y="515.9">0</text><text x="592.5" y="498.8">2</text><text x="623.3" y="481.8">4</text><text x="654.1" y="464.7">6</text></g>
<g text-anchor="middle" font-size="13.1"><text x="449.0" y="518.0">z</text><text x="633.0" y="497.0">ρ</text><text x="361.2" y="371.5" text-anchor="start"><tspan class="s">Φ</tspan>(z,ρ)</text></g>
<g text-anchor="end" font-size="12"><text x="386.4" y="441.3">-0.8</text><text x="386.4" y="429.0">-0.4</text><text x="386.4" y="416.6">0</text><text x="386.4" y="404.2">0.4</text><text x="386.4" y="391.9">0.8</text></g>
<!-- i -->
<g fill="none" stroke="#000" stroke-width=".55">
<path d="M708.8 483.6L847.4 509.2L926.9 464.8L788.3 439.2Z"/>
<path d="M714.9 484.7L716.3 483.9M794.4 440.3L792.9 441.1M730.7 487.6L732.2 486.8M810.2 443.2L808.7 444.1M746.5 490.6L748.0 489.7M826.0 446.2L824.5 447.0M762.3 493.5L763.8 492.7M841.8 449.1L840.3 449.9M778.1 496.4L779.6 495.6M857.6 452.0L856.1 452.8M793.9 499.3L795.4 498.5M873.4 454.9L871.9 455.7M809.7 502.2L811.2 501.4M889.2 457.8L887.7 458.7M825.5 505.2L827.0 504.3M905.0 460.8L903.5 461.6M841.3 508.1L842.8 507.3M920.8 463.7L919.4 464.5M873.9 494.4L870.6 493.8M735.3 468.8L738.6 469.4M900.4 479.6L897.1 479.0M761.8 454.0L765.1 454.6"/>
</g>
<g fill="none" stroke-width=".42">
<path d="M727.3 487l9.6-5.1 9.6-4.6 18.8-7.9 9.2-3.2 8.2-2.4 7.8-1.8 6.3-.9 8.2-.4 11.9 1.2 14.7 .3 6.5 .7 5.1 1.4 8.3 4 8.5 2.5 2.1 1 1.2 1 .8 1.3 .3 1.1-.6 3-2.3 3.6-3.9 4.2-5.1 4.4-7 5.2-7.6 4.9-9 5.3" stroke="#00c000" stroke-dasharray="2 1"/>
<path d="M735.7 488.6l10.7-5.4 10.6-4.5 9.8-3 7.5-1.2 3.3 .3 1.9 1.1 .7 1.7 .1 3.4 .4 .7 .8 .4 4.2-.2 16.9-3.5 6.8-.4 3.2 .8 1.4 1.4 .3 2-.9 4.8 .3 .7 .7 .5 3 0 11.3-2 4.8-.6 3.6 .2 2.2 .9 .5 1.4-.5 1.6-1.4 2-2.1 2.1-6.7 5.1-8.6 5.3" stroke="#0000ff" stroke-dasharray="1 2"/>
<path d="M740.9 489.5l6.5-3.2 6.9-2.7 4.9-1.1 1.7-.1 1.6 .4 .4 .6-.2 .8-1.6 2.2-3.5 2.8-4.3 2.6M770.2 494.9l8-3.9 8.9-3.3 6.7-1.3 2.1 0 1.3 .6 .3 .7-.1 .9-2 2.6-3.9 3.2-5.5 3.5M802.9 501l6.5-3.2 7.1-2.7 5.2-1.1 1.6-.1 1.5 .4 .2 1.2-1.7 2.3-3.7 2.8-4.3 2.7" stroke="#ff00ff" stroke-dasharray=".7 .5"/>
</g>
<g fill="none" stroke="#000" stroke-width=".6">
<path d="M708.5 483.6L708.5 393.1M708.5 453.5L712.0 453.5M708.5 433.5L712.0 433.5M708.5 413.5L712.0 413.5M708.5 393.5L712.0 393.5"/>
</g>
<linearGradient id="Pi" gradientUnits="userSpaceOnUse" x1="708.80" y1="442.49" x2="714.74" y2="410.33"><stop offset="0" stop-color="#ecdce6"/><stop offset="0.029" stop-color="#e2cdd9"/><stop offset="0.058" stop-color="#d4b9c6"/><stop offset="0.096" stop-color="#c3a0ac"/><stop offset="0.144" stop-color="#aa8087"/><stop offset="0.192" stop-color="#91625f"/><stop offset="0.24" stop-color="#7a463a"/><stop offset="0.278" stop-color="#642816"/><stop offset="0.321" stop-color="#46050a"/><stop offset="0.372" stop-color="#370050"/><stop offset="0.43" stop-color="#32008c"/><stop offset="0.489" stop-color="#3200be"/><stop offset="0.547" stop-color="#2d00e6"/><stop offset="0.576" stop-color="#2700f0"/><stop offset="0.632" stop-color="#1e00ff"/><stop offset="0.725" stop-color="#0058ff"/><stop offset="0.824" stop-color="#0096ff"/><stop offset="0.848" stop-color="#00a8ff"/><stop offset="0.887" stop-color="#00cdff"/><stop offset="0.926" stop-color="#00ebff"/><stop offset="0.955" stop-color="#00ffff"/><stop offset="1" stop-color="#00ffff"/></linearGradient>
<g stroke-width=".4" stroke-linejoin="round" fill="url(#Pi)" stroke="url(#Pi)"><path d="M781.1 364.7l38.4 11.8 30.9 6.9 30.8 4.5 38.5 2.4 7.2-4.2-38.8-3.2-30.5-4.6-30.5-6.7-38.8-11.1z" fill="#00ffff" stroke="#00ffff"/><path transform="translate(72.05 -40.24)" d="M708.2 405.4l38.5 11.9 30.8 6.9 30.8 4.5 38.5 2.3 1.4-.8-38.4-2.5-30.9-4.5-30.8-6.9-38.5-11.7z"/><path transform="translate(71.22 -39.77)" d="M708.2 405.4l38.1 11.9 31.2 7 31.2 4.5 38.1 2.2 1.4-.8-38.4-2.4-30.9-4.5-30.8-6.9-38.5-11.8z"/><path transform="translate(70.39 -39.31)" d="M708.2 405.4l38.1 12 31.2 7.1 31.2 4.4 38.1 2.1 1.4-.8-38.1-2.3-31.2-4.5-31.2-7-38.1-11.8z"/><path transform="translate(69.56 -38.85)" d="M708.2 405.5l38.1 12.1 31.2 7 31.2 4.5 38.1 2 1.4-.9-38.1-2.1-31.2-4.5-31.2-7.1-38.1-11.9z"/><path transform="translate(68.73 -38.39)" d="M708.2 405.5l38.1 12.2 31.2 7.1 31.2 4.4 38.1 1.9 1.4-.8-38.1-2.1-31.2-4.5-31.2-7-38.1-12z"/><path transform="translate(67.91 -37.92)" d="M708.2 405.5l38.1 12.3 31.2 7.1 31.2 4.4 25.6 .9 12.5 .9 1.4-.8-38.1-2-31.2-4.4-31.2-7.1-38.1-12.1z"/><path transform="translate(67.08 -37.46)" d="M708.2 405.5l12.5 3.8 25.3 8.5 31.5 7.3 31.5 4.4 25.3 .7 12.5 .9 1.4-.8-12.4-.9-25.7-1-31.2-4.4-31.2-7.1-38.1-12.2z"/><path transform="translate(66.25 -37)" d="M708.2 405.5l12.5 3.8 25.3 8.7 31.5 7.2 31.5 4.4 25.3 .7 12.5 .8 1.4-.8-12.4-.9-25.7-.8-31.2-4.4-31.2-7.1-25.6-8.7-12.5-3.7z"/><path transform="translate(65.42 -36.54)" d="M708.2 405.6l12.8 3.9 25 8.6 31.5 7.3 31.5 4.4 25 .5 12.8 .9 1.4-.9-12.4-.8-25.3-.8-31.6-4.4-31.5-7.2-25.3-8.6-12.5-3.8z"/><path transform="translate(64.59 -36.07)" d="M708.2 405.6l12.8 3.9 25 8.8 31.5 7.2 31.5 4.4 25 .5 12.8 .8 1.4-.9-12.8-.8-24.9-.6-31.6-4.4-31.5-7.3-24.9-8.6-12.9-3.9z"/><path transform="translate(63.77 -35.61)" d="M708.2 405.6l12.8 3.9 25 8.9 31.5 7.3 31.5 4.4 25 .3 12.8 .8 1.4-.8-12.8-.9-24.9-.5-31.6-4.4-31.5-7.2-25-8.7-12.8-3.9z"/><path transform="translate(62.94 -35.15)" d="M708.2 405.6l12.8 4 25 9 31.5 7.3 31.5 4.3 25 .2 12.8 .8 1.4-.8-12.8-.8-24.9-.4-31.6-4.4-31.5-7.3-25-8.8-12.8-3.9z"/><path transform="translate(62.11 -34.69)" d="M708.2 405.6l13.2 4.1 24.2 8.9 31.9 7.5 31.9 4.3 24.2 .1 13.2 .7 1.4-.8-12.8-.8-24.9-.3-31.6-4.3-31.5-7.3-25-8.9-12.8-4z"/><path transform="translate(61.28 -34.22)" d="M708.2 405.6l13.2 4.2 24.2 9 31.9 7.4 31.9 4.4 24.2-.1 13.2 .7 1.4-.8-13.1-.7-24.6-.2-31.6-4.4-31.5-7.3-24.6-8.9-13.2-4.1z"/><path transform="translate(60.45 -33.76)" d="M708.2 405.7l13.2 4.1 24.2 9.2 31.9 7.4 31.9 4.3 24.2-.1 13.2 .7 1.4-.9-13.1-.7-24.3 0-31.9-4.4-31.8-7.4-24.3-8.9-13.2-4.2z"/><path transform="translate(59.62 -33.3)" d="M708.2 405.7l13.5 4.3 23.9 9.1 31.9 7.5 31.9 4.3 23.9-.3 13.5 .7 1.4-.8-13.1-.8-24.3 .1-31.9-4.3-31.8-7.5-24.3-9-13.2-4.1z"/><path transform="translate(58.8 -32.84)" d="M708.2 405.7l13.5 4.4 23.9 9.2 31.9 7.5 31.9 4.3 23.9-.4 13.5 .6 1.4-.8-13.5-.7-23.9 .2-31.9-4.3-31.9-7.5-23.9-9-13.5-4.3z"/><path transform="translate(57.97 -32.37)" d="M708.2 405.7l13.5 4.4 23.9 9.4 31.9 7.5 31.9 4.3 23.9-.6 13.5 .6 1.4-.8-13.5-.7-23.9 .4-31.9-4.3-31.9-7.5-23.9-9.2-13.5-4.3z"/><path transform="translate(57.14 -31.91)" d="M708.2 405.7l13.5 4.5 23.9 9.5 31.9 7.5 31.9 4.3 23.9-.7 13.5 .5 1.4-.8-13.5-.6-23.9 .4-31.9-4.2-31.8-7.5-24-9.3-13.5-4.4z"/><path transform="translate(56.31 -31.45)" d="M708.2 405.8l13.9 4.5 23.5 9.6 31.9 7.5 31.9 4.2 23.5-.8 13.9 .6 1.4-.9-13.5-.6-23.9 .6-31.9-4.2-31.8-7.5-24-9.5-13.5-4.4z"/><path transform="translate(55.48 -30.99)" d="M708.2 405.8l13.9 4.6 23.2 9.6 32.2 7.7 32.2 4.2 23.2-1 13.9 .5 1.4-.9-13.8-.5-23.6 .7-31.9-4.2-31.8-7.6-23.6-9.4-13.9-4.6z"/><path transform="translate(54.66 -30.52)" d="M708.2 405.8l13.9 4.6 23.2 9.8 32.2 7.7 32.2 4.2 23.2-1.2 13.9 .5 1.4-.8-13.8-.6-23.6 .9-31.9-4.2-31.9-7.6-23.5-9.6-13.9-4.5z"/><path transform="translate(53.83 -30.06)" d="M708.2 405.8l14.2 4.8 22.9 9.8 32.2 7.7 32.2 4.2 22.9-1.3 14.2 .4 1.4-.8-13.8-.5-23.2 1-32.3-4.2-32.2-7.7-23.2-9.6-13.9-4.6z"/><path transform="translate(53 -29.6)" d="M708.2 405.8l14.2 4.9 22.9 9.9 32.2 7.7 32.2 4.2 22.9-1.5 14.2 .4 1.4-.8-14.2-.5-22.8 1.2-32.3-4.2-32.2-7.7-22.9-9.6-14.2-4.8z"/><path transform="translate(52.17 -29.14)" d="M708.2 405.8l14.2 4.9 22.9 10.1 32.2 7.8 32.2 4.1 22.9-1.6 14.2 .3 1.4-.8-14.2-.4-22.8 1.3-32.3-4.1-32.2-7.8-22.9-9.8-14.2-4.8z"/><path transform="translate(51.34 -28.67)" d="M708.2 405.9l14.6 5 22.5 10.1 32.2 7.8 32.2 4.1 5.6-.1 17-1.6 14.5 .3 1.4-.9-14.2-.4-22.8 1.6-32.3-4.2-32.2-7.8-22.9-9.9-14.2-4.9z"/><path transform="translate(50.52 -28.21)" d="M708.2 405.9l14.6 5.1 22.5 10.3 17 3.8 15.2 4 15.2 1.6 17 2.5 5.6-.2 16.9-1.8 14.6 .3 1.4-.9-14.2-.3-22.9 1.7-32.2-4.1-32.2-7.8-22.9-10.1-14.2-5z"/><path transform="translate(49.69 -27.75)" d="M708.2 405.9l14.6 5.1 22.5 10.5 17 3.8 15.2 4.1 15.2 1.5 17 2.5 5.6-.2 16.9-1.9 14.6 .2 1.4-.8-14.5-.3-17 1.7-5.5 .1-32.3-4.1-32.2-7.8-22.5-10.1-14.6-5.1z"/><path transform="translate(48.86 -27.29)" d="M708.2 405.9l14.6 5.2 17.3 8.5 5.2 2.2 17 3.7 15.2 4.1 15.2 1.5 17 2.6 5.2-.2 17.4-2.2 14.5 .2 1.4-.8-14.5-.3-17 1.9-5.5 .1-17-2.4-15.3-1.6-15.2-4.1-17-3.8-22.5-10.3-14.6-5.1z"/><path transform="translate(48.03 -26.82)" d="M708.2 405.9l14.9 5.4 17 8.6 5.2 2.1 16.6 3.6 15.6 4.3 15.6 1.4 16.6 2.6 5.2-.2 17-2.3 14.9 .1 1.4-.8-14.5-.2-17 2-5.5 .2-17-2.6-15.3-1.5-15.2-4.1-17-3.7-22.5-10.5-14.6-5.2z"/><path transform="translate(47.2 -26.36)" d="M708.2 405.9l14.9 5.5 21.8 10.8 4.9 1.3 12.5 2.4 15.2 4.3 15.3 1.3 12.4 2.3 4.9 .4 4.8-.3 17-2.4 14.9 0 1.4-.8-14.9-.1-16.9 2.1-5.2 .2-16.7-2.5-15.6-1.5-15.6-4.3-16.6-3.6-5.2-2.1-17-8.4-14.9-5.4z"/><path transform="translate(46.38 -25.9)" d="M708.2 406l14.9 5.4 21.8 11 4.9 1.4 12.1 2.2 15.6 4.5 15.6 1.3 12.1 2.2 4.9 .5 4.8-.4 17-2.6 14.9 .1 1.4-.9-14.9-.1-17 2.4-5.2 .2-16.6-2.6-15.6-1.4-15.6-4.4-16.6-3.5-5.2-2.2-17-8.6-14.9-5.4z"/><path transform="translate(45.55 -25.44)" d="M708.2 406l15.2 5.7 16.7 8.9 4.8 2.1 4.9 1.4 12.1 2.1 15.6 4.6 15.6 1.2 12.1 2.3 4.9 .4 4.8-.3 16.7-2.8 15.2 0 1.4-.8-14.9-.1-17 2.5-4.8 .3-4.9-.5-12.4-2.2-15.3-1.3-15.2-4.4-12.5-2.3-4.8-1.4-21.9-10.8-14.9-5.4z"/><path transform="translate(44.72 -24.97)" d="M708.2 406l15.2 5.7 16.7 9.1 4.8 2.2 4.9 1.3 12.1 2.1 15.6 4.7 15.6 1.1 12.1 2.4 4.9 .4 4.8-.4 16.7-2.9 15.2-.1 1.4-.8-15.2 0-16.7 2.6-4.8 .3-4.9-.4-12.1-2.3-15.6-1.2-15.6-4.5-12.1-2.2-4.8-1.4-4.9-2.1-16.6-8.8-15.3-5.6z"/><path transform="translate(43.89 -24.51)" d="M708.2 406l15.3 5.8 16.6 9.3 4.8 2.2 4.9 1.3 12.1 2.1 15.6 4.7 15.6 1 12.1 2.5 4.9 .4 4.8-.4 16.7-3.2 6.9-.3 8.3 .2 1.4-.8-15.2 0-16.6 2.9-4.9 .3-4.9-.4-12.1-2.4-15.6-1.1-15.6-4.6-12.1-2.1-4.8-1.4-4.9-2.2-16.6-8.9-15.3-5.7z"/><path transform="translate(43.06 -24.05)" d="M708.2 406l8.3 2.9 7.3 3.1 16.3 9.3 4.8 2.3 4.5 1.3 12.5 2 15.6 4.8 15.6 1 12.5 2.5 4.5 .4 4.8-.4 16.3-3.4 7.3-.4 8.3 .2 1.4-.8-15.2 .1-16.6 3-4.9 .4-4.8-.4-12.2-2.4-15.6-1.1-15.6-4.7-12.1-2.1-4.8-1.3-4.9-2.2-16.6-9.2-15.3-5.7z"/><path transform="translate(42.23 -23.59)" d="M708.2 406l8.3 2.9 7.3 3.2 16.6 9.7 4.5 2.1 4.5 1.3 12.5 1.9 15.6 5 15.6 .8 12.5 2.7 4.5 .4 4.5-.5 16.6-3.6 7.3-.4 8.3 .1 1.4-.8-8.3-.2-6.9 .4-16.6 3.2-4.9 .4-4.8-.4-12.2-2.5-15.6-1-15.6-4.8-12.1-2-4.8-1.3-4.9-2.3-16.6-9.3-15.3-5.8z"/><path transform="translate(41.41 -23.12)" d="M708.2 406.1l8.3 2.9 7.3 3.1 16.6 10 4.5 2.1 4.5 1.3 12.5 1.8 15.6 5.1 15.6 .7 12.5 2.8 4.5 .4 4.5-.5 10.7-2.8 5.9-1 7.3-.5 8.3 .2 1.4-.9-8.3-.2-7.3 .5-16.3 3.3-4.8 .5-4.5-.4-12.5-2.6-15.6-.9-15.6-4.8-12.4-2-4.5-1.3-4.9-2.3-16.3-9.4-7.3-3.1-8.3-2.9z"/><path transform="translate(40.58 -22.66)" d="M708.2 406.1l8.7 3 7.2 3.3 16.3 10 4.5 2.2 4.5 1.2 12.5 1.8 15.6 5.2 15.6 .5 12.5 2.9 4.5 .4 4.5-.5 10.4-2.9 5.9-1.1 7.2-.6 8.7 .2 1.4-.8-8.3-.2-7.3 .4-16.6 3.7-4.5 .4-4.5-.4-12.5-2.7-15.6-.7-15.6-5-12.4-1.9-4.5-1.3-4.5-2.1-16.7-9.8-7.3-3.2-8.3-2.8z"/><path transform="translate(39.75 -22.2)" d="M708.2 406.1l8.7 3.1 7.2 3.3 16.3 10.2 4.5 2.2 4.5 1.3 12.5 1.6 15.6 5.4 15.6 .4 12.5 2.9 4.5 .5 4.5-.6 10.4-3.1 5.9-1.1 7.2-.6 8.7 .1 1.4-.8-8.3-.2-7.3 .5-5.9 1.1-10.7 2.8-4.5 .5-4.5-.4-12.5-2.8-15.6-.7-15.6-5.1-12.4-1.8-4.5-1.3-4.5-2.1-16.7-10-7.3-3.2-8.3-2.9z"/><path transform="translate(38.92 -21.74)" d="M708.2 406.1l8.7 3.1 7.2 3.3 5.9 3.4 10.4 7.1 4.5 2.3 4.5 1.2 12.5 1.6 15.6 5.4 15.6 .3 12.5 3.1 4.5 .4 4.5-.6 10.4-3.2 5.9-1.3 7.2-.6 8.7 .1 1.4-.8-8.6-.2-7.3 .6-5.9 1.2-10.4 2.9-4.5 .5-4.5-.4-12.5-2.9-15.6-.5-15.6-5.2-12.4-1.8-4.5-1.2-4.5-2.2-16.3-10.1-7.3-3.3-8.7-3z"/><path transform="translate(38.09 -21.27)" d="M708.2 406.1l9 3.3 7.3 3.4 5.9 3.5 10 7 4.5 2.4 4.5 1.2 12.5 1.4 15.6 5.6 3.8 .4 11.8-.2 12.5 3.1 4.5 .5 4.5-.7 10-3.3 5.9-1.3 7.3-.8 9 .1 1.4-.8-8.6-.1-7.3 .6-5.9 1.2-10.4 3-4.5 .7-4.5-.5-12.5-2.9-15.6-.4-15.6-5.4-12.4-1.6-4.5-1.3-4.5-2.3-16.3-10.2-7.3-3.3-8.7-3.1z"/><path transform="translate(37.27 -20.81)" d="M708.2 406.1l9 3.3 7.3 3.4 5.9 3.6 10 7.2 4.5 2.4 4.5 1.2 12.5 1.4 11.8 4.6 3.8 1.1 3.8 .3 11.8-.3 12.5 3.3 4.5 .5 4.5-.8 10-3.5 5.9-1.4 7.3-.7 9 0 1.4-.8-8.6-.1-7.3 .7-5.9 1.2-10.4 3.3-4.5 .6-4.5-.4-12.5-3.1-15.6-.3-15.6-5.5-12.4-1.5-4.5-1.2-4.6-2.3-10.3-7.1-5.9-3.5-7.3-3.3-8.7-3.1z"/><path transform="translate(36.44 -20.35)" d="M708.2 406.2l9 3.2 7.3 3.5 5.9 3.7 10.4 7.6 4.1 2.2 4.2 1.2 8.7 .5 4.1 .7 11.8 4.8 3.8 1.1 3.8 .3 11.8-.4 4.2 .8 8.6 2.7 4.2 .4 4.1-.8 10.4-3.7 5.9-1.5 7.3-.8 9 .1 1.4-.9-9 0-7.3 .7-5.9 1.3-10 3.4-4.5 .7-4.5-.5-12.5-3.2-11.8 .3-3.8-.4-15.6-5.6-12.4-1.4-4.5-1.2-4.5-2.4-10.1-7.1-5.9-3.5-7.3-3.4-9-3.3z"/><path transform="translate(35.61 -19.89)" d="M708.2 406.2l9 3.3 7.3 3.5 6.2 4 10.1 7.5 4.1 2.3 4.2 1.1 8.7 .5 4.1 .7 12.1 5.1 3.5 1 3.5 .2 7.9-.7 4.2 .1 4.2 .9 8.6 2.7 4.2 .5 4.1-.8 10.1-3.9 6.2-1.6 7.3-.9 9 .1 1.4-.9-9 0-7.3 .8-5.8 1.4-10.4 3.6-4.2 .7-4.5-.5-12.5-3.3-11.8 .4-3.8-.3-3.8-1.1-11.8-4.8-4.1-.7-8.3-.6-4.5-1.2-4.2-2.2-10.4-7.4-5.9-3.6-7.3-3.5-9-3.3z"/><path transform="translate(34.78 -19.42)" d="M708.2 406.2l9 3.3 7.6 3.8 5.9 3.8 10.1 7.8 4.1 2.3 4.2 1.1 8.7 .3 4.1 .7 4.2 1.5 7.9 3.8 3.5 1 3.5 .2 7.9-.8 4.2 .1 4.2 .8 8.6 2.9 4.2 .5 4.1-.9 10.1-4 5.9-1.7 7.6-.9 9 0 1.4-.8-9-.1-7.3 .8-5.8 1.5-10.4 3.8-4.2 .8-4.2-.4-8.6-2.7-4.2-.9-12.1 .6-3.5-.3-3.4-1-12.2-5-4.1-.7-8.7-.5-4.1-1.2-4.2-2.2-10.4-7.7-5.9-3.7-7.3-3.5-9-3.2z"/><path transform="translate(33.95 -18.96)" d="M708.2 406.2l9 3.3 7.6 3.8 5.9 3.9 10.1 8 4.1 2.5 4.2 1 8.7 .2 4.1 .7 4.2 1.5 7.9 3.9 3.5 1 3.5 .3 7.9-1 4.2 0 4.2 .9 8.6 3 4.2 .5 4.1-.9 10.1-4.3 5.9-1.7 7.6-1 9 0 1.4-.8-9 0-7.6 .9-5.9 1.6-10 3.9-4.2 .8-4.2-.4-8.6-2.9-4.2-.8-4.1-.1-8 .8-3.5-.3-3.4-1-12.2-5.2-4.1-.7-8.7-.3-4.1-1.2-4.2-2.3-10-7.6-5.9-3.8-7.7-3.7-9-3.3z"/><path transform="translate(33.12 -18.5)" d="M708.2 406.2l9 3.4 7.6 3.8 6.3 4.3 9.7 7.9 4.1 2.5 4.2 1.1 8.7 0 4.1 .6 4.2 1.6 7.9 4 3.5 1.1 3.5 .2 7.9-1.1 4.2 0 4.2 .9 8.6 3.2 4.2 .4 4.1-.9 9.7-4.4 6.3-1.9 7.6-1.1 9 0 1.4-.8-9 0-7.6 1-5.9 1.6-10 4.2-4.2 .8-4.2-.4-8.6-3-4.2-.9-4.1 0-8 .9-3.5-.3-3.4-1-8-3.8-4.2-1.5-4.1-.7-8.7-.2-4.1-1.1-4.2-2.4-10-7.9-5.9-3.8-7.7-3.8-9-3.3z"/><path transform="translate(32.3 -18.04)" d="M708.2 406.2l9.4 3.6 7.6 3.9 5.9 4.1 9.7 8.2 4.1 2.5 4.2 1.1 8.3-.2 4.5 .7 4.2 1.5 7.9 4.3 3.5 1.1 3.5 .1 7.9-1.2 4.2-.1 4.5 1.1 8.3 3.2 4.2 .5 4.1-1 9.7-4.6 5.9-2 7.6-1.1 9.4-.1 1.4-.8-9 0-7.6 1-5.9 1.8-10 4.3-4.2 .9-4.2-.4-8.6-3.1-4.2-.9-4.1 0-8 1-3.5-.2-3.4-1.1-8-3.9-4.2-1.6-4.1-.6-8.7-.1-4.1-1.1-4.2-2.4-10.1-8.1-5.8-3.9-7.7-3.8-9-3.4z"/><path transform="translate(31.47 -17.57)" d="M708.2 406.2l9.4 3.6 7.6 4 5.9 4.2 10 8.7 3.8 2.3 4.2 1 8.3-.3 4.5 .6 4.2 1.6 7.9 4.4 3.5 1.2 3.5 .1 7.9-1.4 4.2-.1 4.5 1 8.3 3.4 4.2 .5 3.8-.9 10-5 5.9-2 7.6-1.2 9.4-.1 1.4-.8-9 .1-7.6 1-6.2 2-9.7 4.4-4.2 1-4.2-.5-8.6-3.3-4.2-.8-4.1 0-8 1.1-3.5-.2-3.4-1.1-8-4.1-4.2-1.5-4.1-.7-8.7 .1-4.1-1.1-4.2-2.5-9.7-8-6.2-4.3-7.7-3.8-9-3.4z"/><path transform="translate(30.64 -17.11)" d="M708.2 406.3l9.4 3.5 7.6 4.1 6.2 4.5 9.7 8.7 3.8 2.4 4.2 1 8.3-.5 4.5 .6 4.2 1.6 7.9 4.6 3.5 1.2 3.5 .1 7.9-1.6 4.2-.1 4.5 1 8.3 3.6 4.2 .5 3.8-1 9.7-5.1 6.2-2.2 7.6-1.2 9.4-.1 1.4-.9-9.3 .1-7.6 1.2-5.9 1.9-10.1 4.8-3.8 .9-4.2-.5-8.3-3.3-4.5-1-4.1 .1-8 1.3-3.5-.2-3.4-1.1-8-4.3-4.2-1.6-4.5-.6-8.3 .2-4.1-1-3.9-2.3-10-8.5-5.9-4.2-7.6-3.9-9.4-3.6z"/><path transform="translate(29.81 -16.65)" d="M708.2 406.3l9.7 3.7 7.6 4.2 5.9 4.4 9.7 8.9 3.8 2.5 4.2 .9 8.3-.6 4.5 .6 4.2 1.6 7.9 4.8 3.5 1.2 3.5 0 7.9-1.7 4.2-.2 4.5 1.1 8.3 3.7 4.2 .6 3.8-1.1 9.7-5.3 5.9-2.2 7.6-1.4 9.7-.1 1.4-.9-9.3 .1-7.6 1.2-5.9 2.1-10.1 5-3.8 1-4.2-.5-8.3-3.5-4.5-1-4.1 0-8 1.5-3.5-.1-3.4-1.1-8-4.5-4.2-1.6-4.5-.6-8.3 .4-4.1-1.1-3.9-2.3-10-8.8-5.9-4.2-7.6-4-9.4-3.6z"/><path transform="translate(28.98 -16.19)" d="M708.2 406.3l9.7 3.7 7.6 4.2 5.9 4.5 9.7 9.2 3.8 2.6 3.8 .9 8.7-.8 4.5 .5 4.2 1.7 7.9 4.9 3.5 1.3 3.5 0 7.9-1.9 4.2-.2 4.5 1.1 8.7 4 3.8 .5 3.8-1.1 9.7-5.6 5.9-2.4 7.6-1.3 9.7-.2 1.4-.8-9.3 .1-7.6 1.2-6.3 2.3-9.7 5.1-3.8 1.1-4.2-.6-8.3-3.6-4.5-1.1-4.1 .1-8 1.7-3.5-.1-3.4-1.2-8-4.6-4.2-1.6-4.5-.6-8.3 .5-4.1-1-3.8-2.4-9.8-8.7-6.2-4.6-7.6-4.1-9.4-3.5z"/><path transform="translate(28.16 -15.72)" d="M708.2 406.3l9.7 3.8 7.6 4.2 6.3 4.9 9.3 9.2 3.8 2.6 3.8 .9 8.7-1 4.5 .5 4.2 1.7 7.9 5.1 3.5 1.3 3.5 0 7.9-2.2 4.2-.2 4.5 1.2 8.7 4.2 3.8 .5 3.8-1.2 9.3-5.7 6.3-2.6 7.6-1.4 9.7-.2 1.4-.8-9.7 .1-7.6 1.4-5.9 2.2-9.7 5.5-3.8 1-3.8-.4-8.7-3.9-4.5-1.1-4.1 .1-8 1.9-3.5-.1-3.4-1.2-8-4.8-4.2-1.7-4.5-.5-8.6 .7-3.8-1-3.9-2.5-9.7-9-5.9-4.4-7.6-4.2-9.7-3.7z"/><path transform="translate(27.33 -15.26)" d="M708.2 406.3l10.1 4 7.6 4.3 5.9 4.8 9.3 9.4 3.8 2.7 3.8 .9 8.7-1.2 4.5 .4 4.2 1.8 8.3 5.5 3.1 1.2 3.1 0 8.3-2.5 4.2-.2 4.5 1.2 8.7 4.4 3.8 .5 3.8-1.3 9.3-5.9 5.9-2.6 7.7-1.5 10-.3 1.4-.8-9.7 .2-7.6 1.4-5.9 2.3-9.7 5.7-3.8 1.1-3.8-.4-8.7-4.1-4.5-1.2-4.1 .2-8 2.1-3.5-.1-3.4-1.2-8-5-4.2-1.7-4.5-.5-8.6 .8-3.8-.9-3.9-2.6-9.7-9.2-5.8-4.5-7.7-4.2-9.7-3.8z"/><path transform="translate(26.5 -14.8)" d="M708.2 406.3l10.1 4 7.6 4.4 5.9 4.9 9.7 10 3.4 2.4 3.8 .9 8.7-1.4 4.5 .4 4.2 1.8 8.3 5.7 3.1 1.2 3.1 0 8.3-2.6 4.2-.4 4.5 1.3 8.7 4.6 3.8 .6 3.4-1.2 9.7-6.4 5.9-2.7 7.7-1.6 10-.3 1.4-.8-9.7 .2-7.6 1.4-6.2 2.7-9.4 5.7-3.8 1.3-3.8-.5-8.7-4.3-4.5-1.2-4.1 .2-8.4 2.3-3.1 0-3.1-1.1-8.3-5.4-4.2-1.8-4.5-.4-8.6 1-3.8-.9-3.9-2.6-9.3-9.2-6.2-5-7.7-4.2-9.7-3.8z"/><path transform="translate(25.67 -14.34)" d="M708.2 406.3l10.1 4 7.6 4.5 6.2 5.3 9.4 10 3.4 2.5 3.8 .8 8.7-1.6 4.5 .3 4.5 2.1 8 5.8 3.1 1.2 3.1-.1 8-2.8 4.5-.4 4.5 1.3 8.7 4.8 3.8 .6 3.4-1.2 9.4-6.6 6.2-2.9 7.7-1.7 10-.3 1.4-.8-10 .3-7.6 1.5-5.9 2.6-9.7 6.3-3.5 1.1-3.8-.5-8.7-4.5-4.5-1.2-4.1 .2-8.4 2.5-3.1 0-3.1-1.1-8.3-5.6-4.2-1.8-4.5-.4-8.6 1.2-3.8-.8-3.5-2.4-9.7-9.9-5.9-4.7-7.6-4.4-10.1-4z"/><path transform="translate(24.84 -13.87)" d="M708.2 406.3l10.1 4.1 7.9 4.7 5.9 5.1 9.4 10.3 3.4 2.6 3.8 .8 8.7-1.9 4.5 .4 4.5 2.1 8 6 3.1 1.3 3.1-.1 8-3.1 4.5-.4 4.5 1.3 8.7 5.1 3.8 .6 3.4-1.3 9.4-6.9 5.9-2.9 8-1.8 10-.4 1.4-.8-10 .3-7.6 1.6-5.9 2.7-9.7 6.5-3.5 1.2-3.8-.5-8.7-4.7-4.5-1.3-4.1 .3-8.3 2.7-3.2 .1-3.1-1.2-8.3-5.8-4.2-1.8-4.5-.5-8.6 1.5-3.8-.8-3.5-2.5-9.7-10.1-5.9-4.9-7.6-4.4-10.1-4z"/><path transform="translate(24.02 -13.41)" d="M708.2 406.4l10 4 8 4.8 5.9 5.2 9.4 10.6 3.4 2.7 3.8 .8 8.4-2.1 4.5 .2 4.1 1.8 8.3 6.4 3.5 1.5 3.5-.2 8.3-3.3 4.1-.4 4.5 1.5 8.4 5.2 3.8 .6 3.4-1.4 9.4-7.1 5.9-3 8-1.9 10-.3 1.4-.9-10 .3-7.6 1.7-6.3 3-9.3 6.6-3.5 1.3-3.8-.6-8.7-4.9-4.5-1.3-4.5 .4-8 2.9-3.1 0-3.1-1.2-8-5.8-4.5-2.1-4.5-.4-8.6 1.8-3.8-.9-3.5-2.5-9.4-10.1-6.2-5.3-7.6-4.4-10.1-4.1z"/><path transform="translate(23.19 -12.95)" d="M708.2 406.4l10 4 8 4.9 6.3 5.7 9 10.5 3.4 2.8 3.8 .7 8.4-2.3 4.5 .1 4.1 1.9 8.3 6.7 3.5 1.5 3.5-.2 8.3-3.7 4.1-.3 4.5 1.5 8.4 5.4 3.8 .7 3.4-1.5 9-7.2 6.3-3.4 8-1.9 10-.3 1.4-.8-10 .3-8 1.8-5.9 3-9.3 6.9-3.5 1.3-3.8-.6-8.7-5.1-4.5-1.4-4.5 .5-8 3.1-3.1 .1-3.1-1.2-8-6.1-4.5-2.1-4.5-.4-8.6 2-3.8-.8-3.5-2.6-9.4-10.4-5.9-5.1-7.9-4.8-10.1-4z"/><path transform="translate(22.36 -12.49)" d="M708.2 406.4l10.4 4.2 8 5 5.9 5.6 9.3 11.2 3.1 2.5 1.8 .6 2 .1 8.4-2.6 4.5 .1 4.1 1.9 8.3 6.9 3.5 1.7 3.5-.4 8.3-3.9 4.1-.3 4.5 1.5 8.4 5.7 2 .7 1.8 0 3.1-1.3 9.3-7.8 5.9-3.3 8-2.1 10.4-.4 1.4-.8-10 .3-8 1.9-5.9 3.1-9.3 7.2-3.5 1.4-3.8-.6-8.3-5.3-4.5-1.5-4.2 .3-8.3 3.5-3.5 .2-3.4-1.5-8.4-6.5-4.1-1.9-4.5-.1-8.3 2.1-3.8-.7-3.5-2.7-9.4-10.7-5.9-5.3-7.9-4.8-10.1-4z"/><path transform="translate(21.53 -12.02)" d="M708.2 406.4l10.1 4.1 7.9 4.9 6.3 5.9 9.7 12 3.8 2.6 3.1 .2 7.6-2.8 4.2-.1 4.8 2.1 8 6.9 3.1 1.8 3.5 0 8.3-4.1 2.4-.7 2.4 0 4.2 1.4 8 5.8 3.4 1.2 1.8-.3 2-1 6.3-5.4 1.4-1.3-6.2 5-2.1 .9-2.1 .2-3.5-1.3-7.6-5.1-3.4-1.2-4.9 .2-8 3.6-3.1 .5-3.4-1.2-8.7-7-4.5-2.1-3.8-.2-8.3 2.4-3.5-.2-4.2-2.9-9.3-11-6.3-5.7-7.9-4.9-10.1-4zM820.5 439.6l2.1-1.7-1.4 1.2-2.1 1.8zM821.2 439.1l5.2-3.6 5.5-2.2 6.6-1.1 8.3-.2 1.4-.8-8.3 .2-6.6 1-5.5 2.1-5.2 3.4z"/><path transform="translate(20.7 -11.56)" d="M708.2 406.4l10.4 4.3 8 5.1 5.9 5.7 9.7 12.3 3.8 2.7 3.4 0 8-3 4.2 0 4.8 2.6 8.3 7.5 3.5 1.3 3.1-.7 8-4.3 2.4-.5 2.4 .1 3.9 1.6 7.6 5.8 3.1 1.3 1.7-.2 2.1-.9 5.2-4.6 1.4-1.4-5.2 4.3-2.1 .8-1.7 .1-3.1-1.1-8-5.6-3.4-1.3-2.5-.1-2.4 .4-8 3.8-3.1 .6-3.4-1.2-8.4-7-4.8-2.5-3.8-.2-8.3 2.7-3.5-.1-2.1-1.1-2.1-1.8-9.3-11.4-6.3-5.8-7.9-4.9-10.1-4.1zM819.1 441.1l4.9-4-1.4 1.1-4.9 4.3zM822.6 438.2l4.8-3.1 5.2-1.9 6.2-1 8-.2 1.4-.8-7.9 .1-6.3 1-5.2 1.8-4.8 3z"/><path transform="translate(19.88 -11.1)" d="M708.2 406.4l10.4 4.3 8 5.2 6.2 6.2 9.4 12.3 3.8 2.8 3.4-.1 8-3.4 4.2 .1 4.8 2.6 8.3 7.8 3.5 1.3 3.1-.8 8-4.5 2.4-.6 2.4 .2 3.8 1.6 7.7 6.1 3.1 1.3 1.7-.1 1.7-.8 4.6-4 1.4-1.4-4.5 3.6-3.5 .8-3.1-1.2-7.6-5.6-3.8-1.5-2.5-.2-2.4 .5-8 4.1-3.1 .6-3.4-1.3-8.4-7.2-4.8-2.5-4.2-.1-7.9 2.9-3.5-.1-3.8-2.7-9.7-12-6.3-5.9-7.9-5-10.1-4.1zM818.1 442.5l6.6-5.8-1.5 1.1-6.5 6.1zM823.2 437.8l4.5-2.8 5.2-1.8 6.3-1 7.6-.2 1.4-.8-7.6 .1-6.2 1-5.2 1.8-4.5 2.6z"/><path transform="translate(19.05 -10.64)" d="M708.2 406.4l10.4 4.4 8 5.2 6.2 6.3 9.4 12.6 2 2 1.8 .9 3.4-.2 8-3.6 4.2 0 2.4 1 2.4 1.7 8.3 8.1 3.5 1.4 3.1-.9 8-4.8 2.4-.6 2.4 .1 3.8 1.7 7.7 6.3 3.1 1.4 1.7-.1 1.8-.8 4.1-3.8 1.4-1.5-4.1 3.5-1.8 .7-1.7 .1-3.1-1.2-7.6-5.9-3.8-1.6-2.5-.1-2.4 .5-8 4.3-3.1 .8-3.4-1.4-8.4-7.5-4.8-2.6-4.2 0-7.9 3.1-3.5 0-3.8-2.7-9.7-12.4-5.9-5.8-8-5.1-10.4-4.3zM817.7 443.2l7.7-6.8-1.5 1-7.6 7.3zM823.9 437.4l4.5-2.6 5.2-1.8 5.9-.8 7.3-.2 1.4-.8-7.3 .1-5.8 .9-5.2 1.7-4.5 2.5z"/><path transform="translate(18.22 -10.17)" d="M708.2 406.4l10.7 4.6 8 5.3 5.9 6.2 9.4 13 3.4 2.8 3.1 .1 7.7-3.8 4.1-.6 2.4 .7 2.5 1.4 8.6 8.7 3.5 1.9 3.1-.5 7.6-5 4.2-1.1 2.4 .3 2.8 1.3 8 6.8 2.7 1.5 3.2-.5 4.1-3.7 1.4-1.5-4.1 3.3-3.1 .5-2.8-1.3-8-6.4-2.7-1.2-2.5-.3-4.1 1-7.7 4.5-3.1 .4-3.4-1.8-8.7-8.1-2.4-1.4-2.5-.6-4.1 .4-7.3 3.2-3.1 0-1.7-.9-2.1-1.9-9.4-12.3-6.2-6.3-8-5.2-10.4-4.3zM817 444.3l4.9-4.9 3.8-3.1-1.4 1-3.8 3.3-4.9 5.2zM824.3 437.3l4.5-2.6 4.8-1.6 5.9-.9 7.3-.2 1.4-.8-7.2 .2-5.9 .8-4.9 1.6-4.5 2.5z"/><path transform="translate(17.39 -9.71)" d="M708.2 406.4l10.7 4.6 8 5.4 6.3 6.7 9 12.9 3.4 2.9 3.1 .1 7.7-4.1 4.1-.6 2.5 .6 2.7 1.7 8.3 8.7 3.5 2.1 2.8-.4 7.9-5.5 4.2-1.2 2.4 .3 2.8 1.4 8 7.1 2.7 1.5 1.4 .1 1.8-.6 3.8-3.4 1.4-1.6-3.8 3.1-1.7 .6-1.8-.2-2.8-1.5-7.6-6.4-2.7-1.2-2.5-.4-4.1 1.1-7.7 4.8-3.1 .5-3.4-1.9-8.7-8.5-2.4-1.4-2.4-.6-4.2 .5-7.6 3.6-3.1-.1-3.5-2.8-9.4-12.8-5.9-6-7.9-5.4-10.8-4.5zM816.7 445.1l5.5-5.8 4.2-3.4-1.4 1-4.2 3.6-5.5 6.2zM825 436.9l4.1-2.3 4.9-1.6 5.9-.8 6.9-.2 1.4-.8-6.9 .1-5.9 .9-4.8 1.5-4.2 2.2z"/><path transform="translate(16.56 -9.25)" d="M708.2 406.4l10.7 4.6 8 5.5 6.3 6.8 9 13.3 3.4 3 1.4 .3 1.7-.3 7.7-4.4 4.1-.7 2.5 .7 2.7 1.7 8.3 9 3.2 2.1 3.1-.4 7.6-5.6 2.4-1.1 2.1-.4 2.4 .4 2.8 1.3 8 7.5 2.4 1.4 1.4 .3 1.7-.5 3.8-3.4 1.5-1.6-3.9 3.1-1.7 .5-1.4-.2-2.7-1.7-7.7-6.6-2.7-1.3-2.5-.4-4.1 1.2-8 5.2-3.1 .3-3.1-1.9-8.4-8.4-2.7-1.7-2.4-.7-4.2 .6-7.6 3.9-3.1-.1-3.5-2.9-9-12.6-6.3-6.6-7.9-5.4-10.8-4.6zM816.4 445.9l5.8-6.4 4.5-3.7-1.4 1-4.5 3.9-5.9 6.8zM825.3 436.8l4.2-2.3 4.8-1.5 5.6-.8 6.9-.2 1.4-.8-6.9 .2-5.5 .7-4.9 1.5-4.2 2.2z"/><path transform="translate(15.73 -8.79)" d="M708.2 406.5l11.1 4.7 8 5.7 5.9 6.5 9 13.7 3.4 3.1 1.4 .3 1.7-.3 7.7-4.7 4.1-.8 2.5 .7 2.7 1.8 8.3 9.3 3.2 2.1 1.3 .1 1.8-.5 7.9-6.2 2.5-1 2.1-.3 2.4 .5 2.8 1.5 7.6 7.5 2.4 1.6 2.8-.1 3.4-2.9 1.5-1.7-3.5 2.7-2.8 .1-2.7-1.7-7.3-6.7-2.8-1.5-2.4-.4-2.1 .2-2.4 1-8 5.5-3.1 .4-3.1-2-8.3-8.8-2.8-1.7-2.4-.7-4.2 .7-7.6 4.2-3.1-.1-3.5-2.9-9-13.1-6.3-6.7-7.9-5.4-10.8-4.6zM815.7 447.1l6.5-7.4 4.9-4-1.4 1-4.9 4.2-6.6 7.9zM825.7 436.7l4.1-2.3 4.5-1.4 5.6-.8 6.9-.1 1.4-.9-6.6 .2-5.5 .7-4.8 1.4-4.2 2.2z"/><path transform="translate(14.91 -8.32)" d="M708.2 406.5l11.1 4.7 8 5.7 6.2 7.2 9 14 3.1 2.8 2.8 0 8-5.2 2.4-.8 2.1 0 2.4 .8 2.8 2 7.9 9.3 3.2 2.3 1.3 .1 1.8-.6 7.9-6.5 2.5-1.1 2-.3 2.5 .5 2.7 1.6 7.7 7.7 2.4 1.7 1.4 .2 1.4-.3 3.1-2.7 1.4-1.6-3.1 2.4-2.8 .1-2.4-1.5-7.6-7.3-2.8-1.5-2.4-.4-2.1 .2-2.4 1-8 5.9-1.7 .6-1.4-.2-3.1-2-8.4-9.1-2.4-1.6-2.4-.8-2.1 0-2.4 .7-7.6 4.4-1.8 .4-1.4-.3-3.4-3.1-9-13.4-5.9-6.5-8-5.6-11.1-4.8zM815.3 448l7.3-8.4 4.8-4-1.4 .9-5.2 4.6-6.9 8.5zM826 436.5l4.2-2.2 4.5-1.3 5.5-.8 6.6-.1 1.4-.9-6.6 .2-5.5 .7-4.5 1.3-4.2 2.2z"/><path transform="translate(14.08 -7.86)" d="M708.2 406.5l11.1 4.8 8 5.7 6.2 7.3 9 14.4 3.1 2.8 2.8-.1 8-5.4 2.4-.8 2.1-.1 2.4 .8 2.8 2 7.9 9.7 3.2 2.3 1.3 .1 1.8-.7 7.6-6.5 2.4-1.3 2.4-.4 2.5 .5 2.7 1.6 7.7 8.1 2.4 1.7 1.4 .3 1.4-.4 3.1-2.8 1.4-1.6-3.1 2.5-2.8 .2-2.4-1.6-7.6-7.6-2.8-1.6-2.4-.4-2.1 .3-2.4 1-8 6.2-1.7 .6-1.4-.1-3.1-2.2-8-9.1-2.8-1.9-2.4-.8-2.1 0-2.4 .7-8 4.9-2.8 0-3.1-2.7-9.3-14.2-5.9-6.6-8-5.7-11.1-4.7zM815.3 448.5l7.3-8.7 5.2-4.3-1.4 .9-5.2 4.5-7.3 9.2zM826.4 436.4l4.1-2.2 4.5-1.3 5.2-.7 6.6-.1 1.4-.8-6.6 .1-5.2 .7-4.5 1.3-4.1 2.1z"/><path transform="translate(13.25 -7.4)" d="M708.2 406.5l11.1 4.8 4.5 2.9 3.8 3.2 5.9 7 9 14.8 3.1 2.9 1.4 .3 1.7-.6 8.4-5.9 3.8-.6 2.4 .8 2.8 2.1 8.3 10.3 2.8 2 1.3 .1 1.4-.5 8-7 2.4-1.4 2.4-.4 2.5 .5 2.7 1.6 7.7 8.4 2.4 1.8 1.4 .3 1.4-.4 2.7-2.5 1.5-1.6-3.2 2.4-1.3 .2-1.4-.4-2.1-1.5-7.6-7.9-2.8-1.5-2.4-.5-2.1 .3-2.4 1.1-8 6.5-1.7 .7-1.4-.2-3.1-2.2-8-9.4-2.8-2-2.4-.8-2.1 0-2.4 .8-8 5.2-2.7 .1-3.2-2.8-9-14.1-6.2-7.2-8-5.7-11.1-4.8zM815 449.4l7.6-9.4 5.2-4.5-1.4 1-5.6 5-7.3 9.5zM826.4 436.5l4.1-2.2 4.5-1.4 5.2-.7 6.6-.1 1.4-.8-6.6 .1-5.2 .7-4.5 1.3-4.1 2.1z"/><path transform="translate(12.42 -6.94)" d="M708.2 406.5l11.1 4.8 4.5 2.9 3.8 3.3 5.2 6.1 9.4 15.7 3.1 3.3 1.4 .4 1.7-.4 7.6-6 2.4-1 2.5-.1 2.7 1 2.8 2.2 7.6 10 2.5 2.2 1.4 .4 1.7-.4 4.1-3.7 1.5-1.5-4.2 3.4-1.7 .3-1.4-.4-2.4-2-8-9.8-2.8-2-2.4-.8-2.1 0-2.4 .8-8 5.6-1.7 .3-1.4-.4-2.8-2.6-9-14.6-5.9-7-3.8-3.1-4.5-2.9-11.1-4.8zM785.2 445.7l2.4-2.3-1.4 1.3-2.5 2.5zM786.2 444.7l4.1-2.8 2.1-.4 2.1 .2 2.1 1 2.4 1.9 6.6 7.7 2.1 1.8 1.3 .4 1.4-.2 2.8-2.4 1.4-1.6-2.8 2.1-1.3 .3-1.4-.5-2.5-1.9-6.5-7.2-4.2-2.5-2.1-.2-2 .4-4.2 2.6zM814.6 450.3l8-10.1 5.5-4.8-1.4 .9-5.5 4.9-8 10.7zM826.7 436.3l3.8-2 4.5-1.3 5.2-.8 6.6-.1 1.4-.8-6.6 .1-5.2 .7-4.5 1.4-3.8 1.9z"/><path transform="translate(11.59 -6.47)" d="M708.2 406.5l11.1 4.8 4.5 3 3.8 3.2 5.6 6.7 9 15.6 3.1 3.4 1.4 .4 1.4-.3 7.9-6.4 2.4-1.1 2.5-.1 2.7 1 2.8 2.2 7.6 10.3 2.5 2.3 1.4 .4 1.3-.3 3.5-2.9 1.4-1.5-3.4 2.6-1.4 .3-1.4-.5-2.4-2.1-8-10.1-2.8-2-2.4-.8-2.1 0-2.4 .9-8 5.9-1.7 .4-1.4-.5-3.5-3.7-9-14.9-5.2-6.1-3.8-3.2-4.5-2.9-11.1-4.8zM784.1 447.2l4.2-4.1-1.4 1.3-4.2 4.3zM786.9 444.4l4.1-2.5 3.8 .1 4.2 2.8 6.6 8 2.1 1.9 2.4 .3 2.8-2.2 1.4-1.6-2.8 2-2.4-.4-2.1-1.7-6.9-7.8-4.2-2.5-3.8 .1-3.8 2.2zM814.3 451.2l8.3-10.9 5.9-5-1.4 .9-5.9 5.2-8.3 11.4zM827.1 436.2l3.8-2 4.5-1.3 5.2-.7 6.2-.1 1.4-.8-6.2 .1-5.2 .7-4.5 1.3-3.8 1.9z"/><path transform="translate(10.77 -6.01)" d="M708.2 406.5l11.4 5.1 4.5 3 3.8 3.3 5.2 6.5 9.1 15.9 3.1 3.5 1.4 .4 1.3-.4 8-6.7 2.4-1.1 2.5-.2 2.7 1 2.8 2.3 7.6 10.6 2.5 2.4 1.3 .4 1.4-.3 3.2-2.7 1.4-1.5-3.5 2.6-1.4 0-1.4-.6-2-2-7.7-10-2.7-2.2-2.8-1.1-2.4 .2-2.5 1-7.6 6-1.7 .5-1.4-.4-3.1-3.4-9.4-15.8-5.2-6.1-3.8-3.3-4.5-2.9-11.1-4.8zM783.8 448l5.2-5.2-1.5 1.2-5.1 5.5zM787.5 444l3.9-2 1.7-.2 2.1 .5 4.1 3.1 6.3 7.9 2 1.9 2.5 .4 2.4-1.9 1.4-1.6-2.4 1.7-2.4-.4-2.1-1.7-6.6-7.9-3.8-2.6-3.8-.3-3.8 1.9zM813.9 452.1l8.7-11.6 3.1-3.1 3.1-2.3-1.4 .9-3.1 2.3-3.1 3.2-8.7 12.2zM827.4 436l3.8-1.9 4.2-1.2 5.2-.7 6.2-.1 1.4-.8-11.1 .7-4.5 1.3-3.8 1.8z"/><path transform="translate(9.94 -5.55)" d="M708.2 406.5l11.4 5.1 4.5 3 3.9 3.4 5.5 7 8.3 15.2 2.8 3.7 1.4 .8 1.4-.1 3.8-2.9 1.4-1.4-3.8 2.6-1.4 0-1.4-.8-2.8-3.5-8.3-14.6-5.5-6.9-3.8-3.4-4.5-3-11.5-5zM752.6 440.3l3.1-2.9-1.4 1.2-3.1 3.1zM754.3 438.6l4.1-2.5 2.1-.2 2.1 .5 2.1 1.3 2.4 2.4 6.9 10.1 2.1 2.2 2.4 .6 3.2-2.3 1.4-1.5-3.1 2-2.5-.6-2.4-2.5-6.6-9.1-2.4-2.4-2.1-1.2-2.1-.5-2 .2-4.2 2.3zM783.1 449.2l6.2-6.4-1.4 1.2-6.2 6.7zM787.9 444l3.8-2 3.5 .4 4.1 3.2 6.3 8.1 2 2.1 1.4 .5 1.1-.1 2.4-2 1.4-1.6-2.4 1.8-2.4-.4-2.1-1.9-6.2-7.7-4.2-3-3.5-.4-3.8 1.8zM813.9 452.6l8.7-12 3.1-3.1 3.1-2.3-1.4 .9-3.1 2.3-3.1 3.3-8.7 12.5zM827.4 436.1l3.8-1.9 4.2-1.2 5.2-.8 6.2-.1 1.4-.8-6.2 .1-5.2 .7-4.2 1.2-3.8 1.9z"/><path transform="translate(9.11 -5.09)" d="M708.2 406.5l11.4 5.1 4.5 3 3.9 3.4 5.8 7.7 8 14.9 2.8 3.8 1.4 .8 1.4 0 3.1-2.4 1.4-1.5-3.1 2.2-1.4 0-1.4-.8-2.8-3.7-8.3-14.9-5.5-7-3.8-3.3-4.5-3-11.5-5.1zM751.9 441.3l4.5-4.2-1.4 1.2-4.5 4.5zM755 438.3l2.1-1.4 2-.8 2.1 .1 1.8 .5 2 1.5 2.5 2.5 6.5 9.9 2.1 2.4 1.4 .6 1 0 2.8-2 1.4-1.6-2.7 1.8-2.5-.6-2-2.2-7-9.8-4.1-3.5-1.8-.6-2 0-4.2 2zM782.7 450l7-7.3-1.5 1.2-6.9 7.7zM788.2 443.9l3.9-1.8 3.4 .6 3.8 3.1 6.3 8.4 2 2.1 2.1 .5 2.5-1.7 1.4-1.6-2.4 1.6-2.5-.8-7.9-9.7-3.9-2.9-3.4-.6-3.8 1.6zM813.6 453.5l9-12.7 3.1-3.2 3.5-2.6-1.5 .9-3.4 2.6-3.1 3.3-9 13.3zM827.7 435.9l3.9-1.8 4.1-1.2 11.1-.8 1.4-.8-11.1 .8-4.1 1.1-3.8 1.8z"/><path transform="translate(8.28 -4.62)" d="M708.2 406.5l6.6 2.6 5.2 2.7 4.5 3.1 3.8 3.5 5.5 7.4 8.4 15.8 2.4 3.3 1 .7 1.4 .2 3.1-2.3 1.5-1.4-3.2 2-2.4-.9-2.8-3.7-8.3-15.2-5.5-7.1-3.8-3.4-4.5-3-11.5-5.1zM751.6 442.1l5.2-5.1-1.5 1.2-5.2 5.3zM755.3 438.2l2.1-1.4 2.1-.6 2.1 .1 1.7 .8 4.2 3.8 6.5 10.2 2.1 2.4 1.4 .7 1-.1 2.5-1.8 1.4-1.5-2.8 1.7-2.4-1-8.3-11.7-4.2-3.8-1.7-.7-2.1-.1-2.1 .6-2 1.2zM782.4 450.8l7.3-7.9-1.5 1.1-7.2 8.3zM788.2 444l3.9-1.8 3.4 .7 4.2 3.5 7.6 10.1 2.1 .9 2.4-1.5 1.4-1.6-2.4 1.4-2.1-.8-7.9-10-3.9-3.1-3.4-.6-3.8 1.7zM813.2 454.3l9.4-13.4 3.1-3.3 3.5-2.5-1.5 .8-3.4 2.7-3.1 3.3-9.4 14zM827.7 435.9l3.9-1.8 4.1-1.2 11.1-.8 1.4-.8-11.1 .8-4.1 1.1-3.8 1.9z"/><path transform="translate(7.45 -4.16)" d="M708.2 406.5l10.4 4.5 7.6 5.4 3.8 4.1 3.5 4.9 10.4 19.3 1.4 1.2 1.4 .4 1.4-.5 1.7-1.6 1.4-1.4-1.7 1.4-1.4 .4-1.4-.3-1.4-1.2-10.7-19.3-3.5-4.6-3.8-3.9-7.6-5.3-10.1-4.3zM751.2 442.8l5.9-5.8-1.4 1.1-5.9 6.1zM755.7 438.1l2.1-1.3 2-.5 2.1 .3 1.7 .8 4.2 4.1 8 12.1 1.4 1 1 .1 2.4-1.6 1.4-1.5-2.4 1.4-2.4-1-8.3-12-4.2-3.8-1.7-.7-2.1-.2-3.8 1.7zM782 451.6l5.2-6.2 2.8-2.5-1.4 1-2.8 2.7-5.2 6.5zM788.6 443.9l3.8-1.6 3.5 .9 3.8 3.3 8 10.8 2 .6 2.1-1.5 1.4-1.6-2.4 1.4-2.1-.8-7.6-10-3.8-3.2-3.5-.9-3.8 1.6zM813.2 454.8l9.4-13.7 3.5-3.7 3.4-2.5-1.4 .9-3.5 2.5-3.4 3.8-9.4 14.3zM828.1 435.8l3.8-1.8 4.2-1.1 10.7-.8 1.4-.8-10.7 .7-4.2 1.1-3.8 1.8z"/><path transform="translate(6.62 -3.7)" d="M708.2 406.5l10.8 4.7 7.6 5.6 3.4 3.7 3.5 5 10.4 19.6 1.4 1.3 1.4 .3 2.7-1.8 1.5-1.4-2.8 1.7-1.4-.4-1.4-1.3-10.4-19-3.4-4.9-3.8-4-7.7-5.4-10.4-4.5zM750.9 443.5l6.6-6.6-1.5 1.1-6.6 6.9zM756 438l3.8-1.6 2.1 .3 1.7 .8 4.2 4.2 8 12.4 1.4 .9 1 .1 2.4-1.6 1.5-1.5-2.5 1.5-1-.1-1.4-.9-8-11.9-4.1-4.1-1.8-.8-2-.3-3.8 1.5zM782.1 452l5.5-6.7 2.8-2.5-1.5 1-3.1 3-5.2 6.7zM788.9 443.8l3.5-1.4 3.5 .9 3.8 3.4 7.6 10.7 2.1 1 2.1-1.2 1.4-1.6-2.1 1.2-2.1-.9-7.6-10.3-3.8-3.3-3.5-.8-3.4 1.3zM812.9 455.6l9.7-14.4 3.5-3.7 3.4-2.6-1.4 .9-3.5 2.6-3.4 3.8-9.7 15zM828.1 435.8l3.8-1.8 4.2-1.1 10.7-.8 1.4-.8-10.7 .8-4.2 1.1-3.8 1.7z"/><path transform="translate(5.8 -3.24)" d="M708.2 406.5l10.7 4.7 7.7 5.6 3.8 4.2 3.4 5.1 10.1 19.4 1.4 1.3 1 .4 1.4-.4 1.4-1.2 1.4-1.4-1.4 1.1-1.4 .3-2.4-1.6-10.4-19.4-3.4-4.9-3.5-3.7-7.6-5.6-10.8-4.7zM750.5 444.2l7.3-7.4-1.4 1-2.5 2.2-4.8 5.6zM756.4 437.8l2-1 1.8-.3 1.7 .2 2.1 1.1 4.1 4.5 7.7 12.2 2 1.1 2.5-1.4 1.4-1.4-2.4 1.2-2.1-1-8-12.2-3.8-3.9-2.1-1.1-1.7-.3-1.7 .3-2.1 1zM781.7 452.8l5.9-7.3 2.8-2.6-1.5 1-3.1 3.1-5.5 7.2zM788.9 443.9l2.1-1.1 1.7-.3 3.5 1.1 3.8 3.7 7.3 10.5 2.1 1 2.1-1.3 1.4-1.4-2.1 1.1-2.1-.9-7.6-10.5-3.8-3.4-3.5-.8-3.4 1.3zM812.9 456.1l9.7-14.8 3.4-3.8 3.5-2.5-1.4 .8-3.5 2.6-3.4 3.8-9.7 15.3zM828.1 435.8l3.8-1.8 4.2-1.1 10.7-.8 1.4-.8-10.7 .8-4.2 1.1-3.8 1.8z"/><path transform="translate(4.97 -2.77)" d="M708.2 406.5l10.7 4.7 4.2 2.7 3.8 3.3 3.5 3.9 3.4 5.1 10.1 19.6 1.4 1.4 1 .3 2.4-1.3 1.5-1.3-2.5 1.2-1-.4-1.4-1.3-10-19.1-3.5-5.1-3.5-3.9-3.8-3.2-4.1-2.7-10.8-4.7zM750.2 444.9l7.6-7.9-1.4 .9-2.5 2.2-5.2 6.1zM756.4 437.9l2-1 1.8-.4 1.7 .3 2.1 1.1 4.1 4.5 7.7 12.4 2 1.1 2.1-1 1.5-1.4-2.1 1-2.1-1.1-7.6-12-4.2-4.5-2.1-1-1.7-.3-1.7 .3-2.1 1.1zM781.4 453.5l6.2-7.9 3.1-2.8-1.4 1-3.1 2.9-6.3 8.2zM789.3 443.8l3.4-1.2 3.5 1.1 3.8 3.7 7.3 10.7 2.1 1 1.7-.9 1.4-1.4-1.7 .9-2.1-1-7.3-10.3-3.8-3.7-3.4-1.1-3.5 1.2zM812.5 456.8l2.1-2.6 8-12.8 3.5-3.8 3.8-2.8-1.5 .8-3.8 2.9-3.4 3.8-10.1 15.9zM828.4 435.6l3.5-1.6 4.2-1.1 10.7-.8 1.4-.8-10.7 .8-4.2 1.1-3.4 1.6z"/><path transform="translate(4.14 -2.31)" d="M708.2 406.5l11.1 5 4.2 2.7 3.8 3.3 3.4 4.1 3.5 5.2 9.7 19.3 2.1 1.7 1-.1 1.4-.9 1.4-1.3-1.4 .9-1 0-2.1-1.6-10-19.5-3.1-4.6-3.5-4-3.8-3.3-4.2-2.8-11.1-4.9zM749.8 445.5l5.6-6.3 2.7-2.4-1.4 1-2.8 2.4-5.5 6.6zM756.7 437.8l2.1-1 1.7-.2 3.5 1.4 4.1 4.6 7.7 12.5 2.1 1.2 2-1.2 1.5-1.3-2.1 1.1-2.1-1.1-7.6-12.2-4.2-4.6-3.4-1.3-1.8 .2-2.1 .9zM781.4 453.8l6.2-8 3.1-2.9-1.4 .9-3.1 3-6.3 8.3zM789.3 443.8l3.5-1.2 3.4 1.1 3.8 3.8 7.3 10.9 2.1 1 1.7-.9 1.4-1.3-1.7 .9-2.1-1-7.2-10.6-3.9-3.7-3.4-1.1-3.5 1.2zM812.5 457.2l10.1-15.7 3.5-3.9 3.8-2.8-1.5 .9-3.8 2.8-3.4 3.9-10.1 16.1zM828.4 435.7l3.5-1.7 4.2-1.1 10.7-.8 1.4-.8-10.7 .8-4.2 1.1-3.4 1.6z"/><path transform="translate(3.31 -1.85)" d="M708.2 406.5l6.2 2.5 5.2 2.7 4.2 2.8 3.8 3.4 3.5 4.2 3.1 4.8 9.7 19.4 2.1 1.7 2.1-.7 1.4-1.2-1.4 .7-1-.1-2.1-2.1-9.4-18.6-3.4-5.3-3.5-4-3.8-3.3-4.2-2.7-11.1-5zM749.5 446.1l5.9-6.7 2.7-2.5-1.4 1-2.8 2.4-5.8 7zM756.7 437.9l2.1-1 1.7-.2 1.8 .4 2 1.2 3.9 4.3 7.6 12.7 1.7 1.2 2.1-.8 1.4-1.2-2.1 .7-1.7-1.1-7.6-12.4-3.8-4.3-2.1-1.2-1.7-.4-1.8 .2-2.1 .9zM781 454.5l6.6-8.6 3.5-3.1-1.5 .9-3.4 3.2-6.6 8.8zM789.6 443.7l3.5-1 3.5 1.3 3.8 4.1 6.9 10.5 1.7 1.1 1.8-.6 1.4-1.3-1.7 .6-1.8-1-7.2-10.8-3.5-3.5-3.5-1.3-3.4 1zM812.2 457.8l2.1-2.5 8.3-13.8 3.5-3.8 3.8-2.8-1.5 .8-3.8 2.8-3.4 3.9-8.4 14-2 2.7zM828.4 435.7l3.5-1.7 4.2-1.1 10.7-.8 1.4-.8-10.7 .8-4.2 1.1-3.4 1.7z"/><path transform="translate(2.48 -1.39)" d="M708.2 406.5l6.2 2.5 5.2 2.7 4.2 2.8 3.8 3.4 3.5 4.2 3.1 4.8 9.7 19.6 2.1 1.7 2.1-.7 1.4-1.1-2.1 .7-2.1-1.7-9.7-19.3-3.4-5.3-3.5-4.1-3.8-3.3-4.2-2.7-11.1-5zM749.5 446.4l6.2-7.3 2.8-2.3-1.4 .9-3.2 2.7-5.8 7.1zM757.1 437.7l2-.9 1.8-.1 1.7 .5 2.1 1.4 3.8 4.6 6.9 11.9 2.1 1.6 1.7-.6 1.5-1.1-1.8 .5-2-1.5-7-11.7-3.8-4.6-2.1-1.3-1.7-.5-1.7 .1-2.1 .8zM780.7 455l7.2-9.4 3.2-2.7-1.5 .8-3.4 3.3-7 9.1zM789.6 443.7l3.5-1 3.5 1.4 3.8 4 6.9 10.7 1.7 1.1 1.8-.7 1.4-1.1-1.7 .6-1.8-1.1-6.9-10.4-3.8-4-3.5-1.3-3.4 1zM812.2 458.1l2.1-2.6 5.5-9.8 3.1-4.5 3.5-3.8 3.8-2.7-1.4 .8-4.2 3.1-3.4 3.9-8.3 14.1-2.1 2.6zM828.8 435.5l3.5-1.6 4.1-1.1 10.4-.7 1.4-.8-10.4 .7-4.1 1.1-3.5 1.6z"/><path transform="translate(1.66 -0.92)" d="M708.2 406.5l6.2 2.5 5.2 2.7 4.2 2.8 3.8 3.4 3.5 4.2 3.1 4.9 9.3 19.1 2.1 2.1 2.1-.3 1.4-1.1-2.1 .4-2-2.1-9.4-19-3.1-4.8-3.5-4.2-3.8-3.4-4.1-2.8-5.2-2.7-6.3-2.5zM749.1 446.8l6.6-7.6 2.8-2.3-1.4 .8-2.8 2.4-6.6 7.8zM757.1 437.7l2-.9 1.8 0 1.7 .5 2.1 1.3 3.8 4.7 6.9 11.9 2.1 1.6 1.7-.5 1.5-1.1-1.8 .5-2.1-1.5-6.9-11.8-3.8-4.6-2.1-1.4-1.7-.5-1.7 .1-2.1 .9zM780.7 455.2l7.2-9.5 3.2-2.8-1.5 .9-3.4 3.2-7 9.3zM789.6 443.8l3.5-1.1 1.7 .4 2.1 1.2 3.5 3.9 6.9 10.7 1.7 1.1 1.4-.4 1.4-1-1.7 .2-1.7-1.3-6.6-10.2-3.5-3.8-2.1-1.2-1.7-.4-3.4 1zM811.8 458.6l2.5-2.9 5.5-9.9 3.1-4.6 3.5-3.8 3.8-2.7-1.4 .8-3.8 2.7-3.5 3.8-3.1 4.7-5.9 10.5-2.1 2.4zM828.8 435.5l3.4-1.6 4.2-1.1 10.4-.7 1.4-.8-10.4 .7-4.1 1.1-3.5 1.6z"/><path transform="translate(0.83 -0.46)" d="M708.2 406.5l6.2 2.5 5.2 2.7 4.2 2.8 3.8 3.4 3.5 4.2 3.1 4.9 9.3 19.2 2.1 2.1 2.1-.4 1.4-.9-2.1 .3-2-2.1-9.4-19.1-3.1-4.8-3.5-4.2-3.8-3.4-4.1-2.8-5.2-2.7-6.3-2.5zM749.1 447l6.6-7.8 2.8-2.3-1.4 .8-2.8 2.4-6.6 7.8zM757.1 437.7l2-.8 1.8-.1 1.7 .5 2.1 1.3 3.8 4.7 6.9 12 1.8 1.4 1.7-.2 1.4-.9-1.7 .2-1.8-1.5-6.9-11.9-3.8-4.6-2.1-1.3-1.7-.5-1.7 0-2.1 .9zM780.3 455.6l2.1-2.1 5.5-7.7 3.5-3.1-1.4 .9-3.5 3-5.5 7.8-2.1 2.1zM790 443.6l3.4-.8 3.5 1.6 3.5 3.8 6.9 10.7 1.7 1.1 1.4-.3 1.4-1-1.3 .4-1.8-1.1-6.9-10.7-3.5-3.8-3.4-1.5-3.5 .7zM811.8 458.7l2.1-2.3 5.9-10.5 3.1-4.7 3.5-3.8 3.8-2.7-1.4 .8-3.8 2.8-3.5 3.7-3.1 4.7-5.9 10.6-2.1 2.4zM828.8 435.5l3.4-1.6 4.2-1.1 10.4-.7 1.4-.8-10.4 .7-4.1 1.1-3.5 1.6z"/><path transform="translate(0 -0)" d="M708.8 406.2l6.2 2.5 5.2 2.6 4.5 3.1 3.9 3.6 3.4 4.2 3.1 5.1 9 18.5 2.1 2.1 1.8-.1 .8-.5-1.7 .2-2.1-2.2-9-18.5-3.2-5-3.4-4.3-3.8-3.5-4.5-3.1-5.2-2.7-6.3-2.5zM748.8 447.3l1.7-1.5 5.2-6.5 3.1-2.6-.8 .5-3.1 2.6-5.2 6.5-1.7 1.5zM758 437.2l2.1-.7 1.7 0 3.5 1.8 3.8 4.6 6.9 12 1.8 1.5 1.7-.2 .8-.5-1.7 .2-1.8-1.5-6.9-11.9-3.8-4.7-3.5-1.8-1.7 0-2.1 .7zM780.3 455.7l2.1-2.1 5.5-7.8 3.5-3-.8 .4-3.5 3.1-5.5 7.8-2.1 2.1zM790.6 443.2l3.4-.7 3.5 1.5 3.5 3.8 6.9 10.8 1.7 1.1 1.4-.4 .8-.5-1.3 .4-1.8-1.1-6.9-10.7-3.5-3.8-3.4-1.6-3.5 .8zM811.8 458.8l2.1-2.4 5.9-10.5 3.1-4.7 3.5-3.7 3.8-2.8-.8 .5-3.8 2.7-3.5 3.8-3.1 4.7-5.9 10.5-2.1 2.4zM829.4 435.2l3.4-1.6 4.2-1.1 10.4-.7 .8-.5-10.4 .7-4.1 1.1-3.5 1.6z"/></g>
<g text-anchor="middle" font-size="10.2"><text x="713.9" y="493.4">12</text><text x="729.7" y="496.3">9</text><text x="745.5" y="499.2">6</text><text x="761.3" y="502.1">3</text><text x="777.1" y="505.1">0</text><text x="790.9" y="508.0">-3</text><text x="806.7" y="510.9">-6</text><text x="822.5" y="513.8">-9</text><text x="838.3" y="516.7">-12</text><text x="859.3" y="514.5">0</text><text x="885.8" y="499.7">2</text><text x="912.3" y="484.9">4</text><text x="938.8" y="470.1">6</text></g>
<g text-anchor="middle" font-size="11.2"><text x="757.5" y="515.0">z</text><text x="921.0" y="497.2">ρ</text><text x="684.3" y="382.5" text-anchor="start">f(z,ρ)</text></g>
<g text-anchor="end" font-size="10.2"><text x="702.3" y="455.7">0.4</text><text x="702.3" y="435.6">0.6</text><text x="702.3" y="415.4">0.8</text><text x="702.3" y="395.3">1</text></g>
<!-- j -->
<g fill="none" stroke="#000" stroke-width=".55">
<path d="M70.9 654.8L228.1 684.7L318.4 633.6L161.2 603.7Z"/>
<path d="M90.6 658.5L92.0 657.7M180.8 607.4L179.4 608.3M110.2 662.3L111.7 661.4M200.5 611.2L199.0 612.0M129.8 666.0L131.3 665.2M220.1 614.9L218.7 615.7M149.5 669.8L151.0 668.9M239.8 618.6L238.3 619.5M169.2 673.5L170.6 672.7M259.4 622.4L258.0 623.2M188.8 677.2L190.3 676.4M279.1 626.1L277.6 627.0M208.4 681.0L209.9 680.1M298.8 629.9L297.3 630.7M243.1 676.2L239.8 675.5M86.0 646.3L89.3 646.9M258.2 667.7L254.9 667.0M101.0 637.8L104.3 638.4M273.2 659.2L269.9 658.5M116.0 629.2L119.4 629.9M288.3 650.6L285.0 650.0M131.1 620.7L134.4 621.4M303.3 642.1L300.0 641.5M146.1 612.2L149.5 612.9"/>
</g>
<g fill="none" stroke-width=".42">
<path d="M109.7 662.2l6.7-4.4 1.2-1.2 .3-.8-1-.3-3.4 1-9.7 4.6M138.7 667.7l6.1-4 1.6-1.4 .6-1-1.3-.3-3.8 1.2-9.1 4.4M166.2 672.9l6.1-3.9 1.6-1.4 .6-1.1-1.3-.2-3.8 1.1-9.1 4.4M195.2 678.4l6.1-3.9 1.5-1.4 .6-1.2-1.6-.1-4.1 1.4-8.4 4.1" stroke="#00c000" stroke-dasharray="2 1"/>
<path d="M112.1 662.6l6.5-3.9 5-3.5 2.7-2.5 .6-.9 0-1-2.2-.2-6.3 1.9-8.2 3.5-8.8 4.6M141.1 668.2l6.5-3.9 5-3.6 2.9-2.8 .5-.7-.1-1-2.4-.1-6.1 1.9-8.2 3.5-8.8 4.6M168.6 673.4l6.5-3.9 5-3.6 2.9-2.7 .5-.8-.1-.9-2.4-.2-6.1 1.9-8.2 3.6-8.8 4.5M197.6 678.9l6.4-3.9 4.5-3.1 3.1-2.9 .9-1.7-.8-.5-2.1 .1-5.7 1.8-8.3 3.6-8.7 4.6" stroke="#0000ff" stroke-dasharray="1 2"/>
</g>
<g fill="none" stroke="#000" stroke-width=".6">
<path d="M70.5 654.8L70.5 554.2M70.5 621.5L74.0 621.5M70.5 597.5L74.0 597.5M70.5 573.5L74.0 573.5M228.5 684.7L228.5 651.2"/>
</g>
<linearGradient id="Pj" gradientUnits="userSpaceOnUse" x1="70.90" y1="621.40" x2="83.34" y2="556.01"><stop offset="0" stop-color="#ecdce6"/><stop offset="0.03" stop-color="#e2cdd9"/><stop offset="0.06" stop-color="#d4b9c6"/><stop offset="0.1" stop-color="#c3a0ac"/><stop offset="0.15" stop-color="#aa8087"/><stop offset="0.2" stop-color="#91625f"/><stop offset="0.25" stop-color="#7a463a"/><stop offset="0.29" stop-color="#642816"/><stop offset="0.334" stop-color="#46050a"/><stop offset="0.388" stop-color="#370050"/><stop offset="0.448" stop-color="#32008c"/><stop offset="0.51" stop-color="#3200be"/><stop offset="0.57" stop-color="#2d00e6"/><stop offset="0.645" stop-color="#1e00ff"/><stop offset="0.72" stop-color="#0058ff"/><stop offset="0.8" stop-color="#0096ff"/><stop offset="0.86" stop-color="#00cdff"/><stop offset="0.9" stop-color="#00ebff"/><stop offset="0.93" stop-color="#00ffff"/><stop offset="1" stop-color="#00ffff"/></linearGradient>
<g stroke-width=".6" stroke-linejoin="round" fill="url(#Pj)" stroke="url(#Pj)"><path d="M145.5 579.1l66 12.3 91.2 17.6 15.7-8.8-157.2-29.9z" fill="#ebdae4" stroke="#ebdae4"/><path d="M130.4 587.7l65.3 11.9 91.9 18 15.7-8.9-91.1-17.7-66.1-12.2z" fill="#eadae4" stroke="#eadae4"/><path d="M126.7 589.8l65.2 11.8 92 18.1 4.4-2.5-91.6-17.9-65.6-12z" fill="#ead9e3" stroke="#ead9e3"/><path transform="translate(56.44 -31.94)" d="M68.3 622.8l65.3 11.8 91.9 18.1 2.6-1.5-92-18-65.2-11.9z"/><path transform="translate(54.56 -30.87)" d="M68.3 622.8l65.3 11.8 56.2 10.7 35.7 7.4 2.6-1.5-92-18-65.2-11.9z"/><path transform="translate(52.67 -29.81)" d="M68.3 622.8l65.3 11.7 56.2 10.8 35.7 7.4 2.6-1.5-92-18.1-65.2-11.8z"/><path transform="translate(50.79 -28.74)" d="M68.3 622.8l65.3 11.7 56.2 10.7 35.7 7.5 2.6-1.5-35.8-7.4-56.2-10.7-65.2-11.8z"/><path transform="translate(48.91 -27.68)" d="M68.3 622.8l64.9 11.5 56.6 10.9 35.7 7.5 2.6-1.5-35.8-7.4-56.2-10.8-65.2-11.7z"/><path transform="translate(47.03 -26.61)" d="M68.3 622.8l35.4 5.9 29.5 5.5 56.6 10.9 35.7 7.6 2.6-1.5-35.8-7.5-56.6-10.8-64.8-11.6z"/><path transform="translate(45.15 -25.55)" d="M68.3 622.8l35.4 5.8 15.3 3.3 14.2 2.2 42 8.5 14.6 2.4 35.7 7.7 2.6-1.5-35.8-7.5-56.6-10.9-64.8-11.5z"/><path transform="translate(43.27 -24.49)" d="M68.3 622.8l21.7 3.8 14.1 1.9 14.5 3.3 14.6 2.1 13.7 3.2 14.2 2.1 14.1 3.3 14.6 2.3 14.1 3.5 21.6 4.4 2.6-1.5-35.8-7.6-14.5-2.5-42.1-8.4-14.1-2.3-15.3-3.2-35.4-5.9z"/><path transform="translate(41.39 -23.42)" d="M68.3 622.8l23.6 4.1 12.2 1.3 8.6 2.3 9.5 1.9 11 1.2 13.7 3.5 14.2 1.8 14.1 3.6 14.6 2 12.2 3.3 23.5 4.9 2.6-1.5-20.8-4.2-15-3.6-14.5-2.3-14.2-3.3-14.1-2.2-13.8-3.1-14.1-2.1-14.9-3.3-15-2.1-20.8-3.7z"/><path transform="translate(39.51 -22.36)" d="M68.3 622.8l25.2 4.3 10.6 .7 8.3 2.6 10.2 2 10.6 .8 9.8 3 9.8 1.8 7.9 .4 7.5 2.5 7 1.6 7.1 1.1 7.5 .5 10.6 3.3 25.1 5.3 2.6-1.5-22.8-4.6-13-3.4-14.5-2.1-14.2-3.5-14.1-2-13.8-3.3-14.5-2-14.5-3.4-13-1.6-22.8-4z"/><path transform="translate(37.62 -21.29)" d="M68.3 622.8l26.4 4.4 9.4 0 7.9 3 11 2.2 3.9 .4 6.3-.2 6.3 2.6 4.3 1.2 9.4 1.6 7.5-.2 7.9 3.2 11 2.2 3.5 .4 6.7-.2 9.4 3.7 26.3 5.6 2.6-1.5-24.8-5.1-11-3.3-7.4-.6-7.1-1.2-7.1-1.5-7-2.3-7.9-.6-6.3-1-6.7-1.5-7-2.2-10.7-.9-10.2-2-8.2-2.5-11-.9-24.8-4.3z"/><path transform="translate(35.74 -20.23)" d="M68.3 622.8l26 4.4 3.5 .1 3.6-.7 2.5-.7-7.8-.2-25.2-4.4zM103.9 625.9l.4 0-2.5 .6-.4 .1zM101.8 626.5l3.1 0 6.7 3.5 9.4 2.1 5.5 .6 6.7-1 7.5 3.8 7.8 1.8 5.5 .6 6.7-1 7.5 3.9 8.2 1.9 6.3 .8 7.1-.9 5.9 3.2 3.1 1.2 26.7 5.7 2.6-1.5-25.9-5.4-9.9-3.5-7-.1-6.7-1-7.9-1.8-7.4-2.8-6.7 0-5.9-.8-7.9-1.7-6.7-2.6-7.4-.1-5.5-.8-9.1-1.9-6.6-2.6-3.2-.2z"/><path transform="translate(33.86 -19.16)" d="M68.3 622.8l24.4 4.1 3.9 .3 2.4-.4 2.6-1-7.9-.5-22.8-4zM101.6 625.8l4.7-.7-2.6-.1-4.7 1.8zM103.7 625l2 .7 4.3 3.3 3.1 1.4 10.7 2.1 4.3-.4 2.5-.9-4.7-.2-9.8-1.8-9.8-4.1zM130.6 631.2l4.8-.6-2.6-.2-4.7 1.7zM132.8 630.4l2 .8 4.7 3.6 2.7 1.1 9.1 1.8 4.3-.4 2.5-.9-4.3-.1-9-1.8-9.4-3.9zM158.1 636.4l4.8-.6-2.6-.1-4.7 1.6zM160.3 635.7l2 .7 4.7 3.6 2.7 1.2 10.6 2 4.4-.4 2.5-.9-4.7-.1-9.8-1.9-9.8-4.1zM187.2 641.9l4.4-.5-2.6-.1-4.3 1.5zM189 641.3l2 .5 4.7 3.7 3.1 1.4 26.7 5.8 2.6-1.5-26.3-5.5-10.2-4.3z"/><path transform="translate(31.98 -18.1)" d="M68.3 622.8l24 4.1 3.6 .2 2.3-.5 2.6-.9-7.1-.4-22.8-4zM100.8 625.7l4.3-1.5 2 0-2.6-.7-2 .2-4.3 2.9zM104.5 623.5l1.6 1 3.9 4.1 2.8 1.6 10.2 2.1 2.3 .1 2-.5 2.6-.9-4.8-.1-9.8-2-2.7-1.2-5.5-3.5zM129.9 631l4.3-1.4 1.5-.1-2.5-.7-2 .5-3.9 2.6zM133.2 628.8l2 1.2 3.9 4.2 2.3 1.4 9.1 1.9 2.3 .1 2-.4 2.6-1-4.4-.1-8.6-1.7-2.8-1.2-4.3-3-1.6-.7zM157.4 636.2l4.3-1.4 1.6 0-2.6-.7-2 .4-3.9 2.7zM160.7 634.1l2 1.2 3.9 4.1 2.7 1.6 9.9 2.1 4.3-.3 2.6-1-4.8-.2-9.4-2-2.7-1.1-4.4-3.1-1.5-.6zM186.1 641.8l4.3-1.3 1.9-.1-2.5-.7-2 .3-4.3 2.8zM189.8 639.7l1.6 .9 4.3 4.6 2.7 1.5 27.1 6 2.6-1.5-26.7-5.7-3.2-1.3-5.9-3.8z"/><path transform="translate(30.1 -17.03)" d="M68.3 622.8l23.6 4 3.6 .2 1.9-.4 2.6-1-7.1-.4-22-3.9zM100 625.6l5.5-2.9 1.9 .1-2.5-1.3-2 0-5.5 5.1zM104.9 621.5l5.1 6.6 2.4 1.8 9.4 2.2 2.7 .2 2-.4 2.6-1-5.1-.2-9.1-2-2.3-1.4-5.2-4.5zM129.1 630.9l5.1-2.7 1.9-.1-2.5-1.3-2 .3-5.1 4.8zM133.6 626.8l1.6 1.4 3.9 5.4 2.3 1.8 8.3 2 2.4 .1 1.9-.4 2.6-1-4.3-.1-8.3-1.9-2.4-1.2-5.5-4.8zM156.6 636.1l5.1-2.7 1.9 0-2.5-1.4-2 .3-5.1 4.8zM161.1 632l1.6 1.4 3.9 5.5 2.3 1.8 9.1 2.2 2.7 .2 2-.3 2.6-1.1-5.1-.3-8.7-2-2.3-1.3-5.6-4.7zM185.3 641.7l5.5-2.7 1.9 0-2.5-1.3-2 .2-3.5 3.6-2 1.3zM190.2 637.7l1.5 1.5 4 5.5 2.7 1.9 8.3 2.2 18.8 3.9 2.6-1.5-27.1-5.9-2.8-1.4-5.5-4.9z"/><path transform="translate(28.22 -15.97)" d="M68.3 622.8l22.8 3.9 3.6 .3 1.9-.4 2.6-1.1-7.1-.5-21.2-3.7zM99.2 625.5l2.4-1.1 3.9-3.5 1.9 0-2.5-2.1-.8-.3-1.2 .5-4.3 6.1-2 1.5zM104.9 618.8l1.6 2.1 3.5 6.5 2.4 2.3 2.7 1.1 5.5 1.1 3.2 .4 1.9-.4 2.6-1.1-5.5-.3-7.9-2-2.3-1.6-5.2-6zM128.3 630.8l1.9-.9 4-3.5 1.2-.4 1.1 .4-2.5-2.1-1.2-.4-1.2 .7-3.9 5.7-2 1.6zM134 624.3l4.7 8.1 2.3 2.6 2.4 1.1 4.7 1 3.2 .4 1.9-.4 2.6-1.1-5.5-.4-6.7-1.8-2.4-1.8-4.7-5.6zM155.8 636l2-.9 3.9-3.4 1.2-.4 1.1 .3-2.5-2-1.2-.5-1.2 .7-3.9 5.7-2 1.6zM161.5 629.6l5.1 8.6 2.3 2.3 2.8 1.1 5.9 1.2 2.7 .2 2-.4 2.6-1-5.1-.3-8.3-2-2.7-2-4.8-5.7zM184.9 641.6l1.9-1 4-3.4 1.1-.3 1.2 .4-2.5-2-1.2-.6-1.2 .6-3.9 5.7-2 1.6zM190.6 635.3l5.1 8.8 2.7 2.4 7.5 2.2 19.6 4 2.6-1.5-18.5-3.7-8.6-2.3-2.8-1.8-5.1-6.1z"/><path transform="translate(26.34 -14.9)" d="M68.3 622.8l22.4 3.8 3.6 .3 1.9-.4 2.6-1.1-6.7-.4-21.2-3.7zM98.8 625.4l2.4-1.4 4.3-5.5 1.2-.4 1.1 .6-2.5-2.8-1.2-.8-1.2 .7-4.3 8.4-2.4 2.3zM105.3 615.9l4.7 10.6 2.4 3 2.3 1.2 5.1 1.1 3.6 .4 1.9-.4 2.6-1.1-5.9-.4-7.1-1.9-2.3-2.2-4.8-7.5zM127.9 630.7l2.3-1.5 4.4-5.4 1.1-.3 .8 .4-2.5-2.9-1.2-.4-1.2 .9-3.9 7.8-2.4 2.5zM134 621l1.5 2.8 3.2 7.6 2.3 3.3 2 1.2 3.9 1 4 .5 1.9-.4 2.6-1.1-5.9-.5-5.9-1.8-2.4-2.3-4.7-7.4zM155.4 635.9l2.4-1.5 4.3-5.4 1.2-.2 .7 .3-2.5-2.8-1.2-.5-1.2 1-3.9 7.7-2.4 2.5zM161.5 626.3l1.6 2.7 3.1 7.7 2.4 3.3 1.9 1.2 3.6 .9 5.1 .8 2.3-.2 2.6-1.2-7.1-.7-5.9-1.9-2.3-2.4-4.8-7.4zM184.1 641.5l2.3-1.2 4.4-5.4 1.1-.6 1.2 .6-2.5-2.9-1.2-.6-1.2 .8-4.3 8.4-2.4 2.1zM190.6 632l5.1 11.3 2.7 3.1 6.7 2.1 20.4 4.2 2.6-1.5-19.3-3.9-7.8-2.2-2.8-2.2-5.1-8z"/><path transform="translate(24.46 -13.84)" d="M68.3 622.8l22.4 3.8 3.2 .3 1.9-.4 2.6-1.2-6.3-.3-21.2-3.7zM98.4 625.3l1.6-.9 1.2-1.3 4.3-7.5 1.2-.6 1.1 .7-2.5-3.6-1.2-1-1.2 1-4.3 10.9-1.2 2.1-1.6 1.4zM105.3 612.1l4.7 13.3 2.4 3.8 1.9 1.3 3.9 1 4.4 .6 2.3-.4 2.6-1.1-2.4 .1-4.3-.6-3.9-1-2-.9-2.3-2.8-4.8-9.7zM127.5 630.6l1.6-.9 1.1-1.4 4.4-7.5 1.1-.4 .8 .4-2.5-3.7-1.2-.5-1.2 1.3-3.9 10.2-1.2 2.1-1.6 1.5zM134 617.1l1.5 3.4 3.2 9.7 2.3 4.2 2 1.4 2.8 .8 4.3 .7 2.3-.4 2.6-1.1-2.4 .1-4.3-.7-2.7-.7-2-1.1-2.4-3.1-4.7-9.5zM155 635.8l1.6-.9 1.1-1.4 4.4-7.4 1.2-.5 .7 .5-2.5-3.7-1.2-.6-1.2 1.3-3.9 10.2-1.2 2.1-1.6 1.5zM161.5 622.4l1.6 3.4 3.1 9.6 2.4 4.3 1.5 1.2 2.8 .9 5.5 1 2.7-.2 2.6-1.2-2.8 0-5.1-.9-4.7-1.8-2.3-3.1-4.8-9.5zM183.7 641.4l1.6-.7 1.1-1.3 4.4-7.4 1.1-.8 1.2 .6-2.5-3.7-1.2-.7-1.2 1.1-4.3 11-1.2 1.9-1.6 1.2zM190.6 628.1l5.1 14.2 1.1 2.2 1.6 1.7 5.9 2.1 21.2 4.4 2.6-1.5-20-4.1-7.1-2.1-2.8-2.9-5.1-10.3z"/><path transform="translate(22.57 -12.78)" d="M68.3 622.8l22.1 3.7 3.1 .3 2-.4 2.5-1.2-6.3-.3-20.8-3.6zM98 625.2l1.6-.9 1.2-1.6 4.7-10.7 1.2-.8 1.1 .9-2.5-4.4-1.2-1.1-1.2 1.2-4.7 14.9-1.2 2.2-1.5 1.5zM105.3 607.7l4.7 16.5 2.4 4.7 1.9 1.5 2.8 .8 5.1 .9 2.3-.5 2.6-1.1-2.4 .2-5.1-.9-2.7-.7-2-1.2-2.3-3.5-4.8-12.3zM127.1 630.5l1.6-1 1.2-1.6 4.7-10.6 1.2-.7 .7 .6-2.5-4.5-.8-.7-1.2 .9-4.7 14.8-1.2 2.4-1.6 1.5zM134 612.7l1.5 4.1 3.6 13.1 2 4.1 1.5 1.5 2.4 .9 4.7 .8 2.4-.4 2.5-1.1-2.3 .1-4.8-.8-2.3-.8-1.6-1.1-2.3-3.9-3.2-8.9-1.6-3.1zM154.6 635.7l1.6-1 1.2-1.6 4.7-10.6 1.2-.6 .7 .5-2.5-4.5-.8-.7-1.2 1-4.7 14.7-1.2 2.4-1.5 1.5zM161.5 617.9l1.6 4.1 3.5 13.2 2 4.1 1.5 1.5 2.4 .9 5.5 1.1 2.7-.2 2.6-1.3-2.7 0-5.6-1-2.3-.8-1.6-1.1-2.3-3.9-3.2-9-1.6-3.1zM183.3 641.3l1.6-.8 1.5-2.1 4.4-9.9 1.1-1 1.2 .7-2.5-4.5-1.2-.8-1.2 1.4-4.3 13.9-1.6 3.1-1.6 1.3zM190.6 623.7l5.1 17.5 1.2 2.7 1.5 2.1 2 1.2 3.1 .9 22 4.6 2.6-1.5-20.8-4.3-6.3-2.1-2.8-3.5-5.1-13.1z"/><path transform="translate(20.69 -11.71)" d="M68.3 622.8l21.7 3.7 3.1 .3 2-.4 2.5-1.2-6.3-.3-20.4-3.6zM97.6 625.2l1.6-1 1.6-2.5 4.7-13.8 1.2-1.1 1.1 1.1-2.5-5-1.2-1.3-1.2 1.4-4.7 18.4-1.6 3.5-1.5 1.5zM105.3 602.9l4.7 19.8 2.4 5.9 1.5 1.5 2.4 .9 5.5 1 2.4-.4 2.5-1.2-2.3 .2-5.6-1-2.3-.8-1.6-1.2-2.3-4.4-4.8-15.3zM126.7 630.4l1.6-1 1.6-2.7 4.7-13.6 1.1-.8 .8 .6-2.5-5.1-.8-.8-1.2 1.2-4.7 18.2-1.6 3.7-1.5 1.5zM134 607.8l1.5 4.8 3.6 16 2 5 1.5 1.7 2 1 4.7 .8 2.4-.3 2.5-1.2-2.3 .2-4.8-.9-1.9-.8-1.6-1.4-2-3.8-3.5-12.2-1.6-3.8zM154.2 635.6l1.6-1 1.6-2.7 4.7-13.6 1.2-.8 .7 .6-2.5-5.1-.8-.8-1.2 1.2-4.7 18.2-1.6 3.6-1.5 1.6zM161.5 613l1.6 4.9 3.5 15.9 2 5 1.5 1.8 2.4 1.1 5.5 1 2.7-.4 2.6-1.1-2.7 .1-5.6-1-2.3-.9-1.6-1.4-1.9-3.8-3.6-12.2-1.6-3.9zM183.3 641.2l1.6-1.2 1.5-2.8 4.4-12.8 1.1-1.3 1.2 .8-2.5-5.1-1.2-.9-1.2 1.7-4.7 18.4-1.2 2.6-1.6 1.7zM190.6 618.8l1.5 5.2 3.6 15.9 1.2 3.4 1.5 2.5 1.6 1.1 3.1 1.1 22.4 4.7 2.6-1.5-21.6-4.5-3.5-1-2-1.1-1.6-1.9-1.2-2.5-5.1-16.3z"/><path transform="translate(18.81 -10.65)" d="M68.3 622.8l20.9 3.6 3.5 .3 2-.3 2.5-1.2-6.3-.4-20-3.5zM97.2 625.2l2-1.5 1.6-3.3 4.7-17.1 1.2-1.3 1.1 1.2-2.5-5.4-1.2-1.5-1.2 1.7-5.1 23.3-1.6 3.7-1.5 1.4zM105.3 597.8l4.7 23.3 2.4 7 1.5 1.9 2 .9 5.5 1 2.4-.3 2.5-1.2-2.7 .1-5.5-1.1-2-1-1.6-1.7-1.9-4.9-4.8-18.6zM126.3 630.4l1.6-1.1 1.6-2.8 5.1-18 1.1-1.1 .8 .7-2.5-5.5-.8-.9-1.2 1.4-5.1 23.2-1.6 3.8-1.5 1.5zM134 602.6l1.5 5.6 3.6 18.9 1.9 6 1.2 1.7 2 1.3 4.7 1 2.4-.3 2.5-1.2-2.3 .1-4.7-1-2-1.1-1.2-1.3-2-4.7-3.5-14.9-1.6-4.6zM153.8 635.6l1.6-1.1 1.6-2.8 5.1-18 1.2-1.1 .7 .8-2.5-5.6-.8-.9-1.2 1.4-5.1 23.2-1.6 3.8-1.5 1.5zM161.5 607.8l1.6 5.6 3.5 18.9 2 6 1.5 2.2 2 1 5.5 1.2 2.7-.3 2.6-1.3-2.7 .1-5.5-1.1-2-.9-1.6-1.6-1.9-4.7-3.6-14.9-1.6-4.6zM182.9 641.1l1.6-1.1 1.6-3 4.7-17.1 1.1-1.6 1.2 .9-2.5-5.5-1.2-1.1-1.2 2.1-4.7 22-1.6 4-1.6 1.7zM190.6 613.7l1.5 5.9 3.6 18.9 1.5 5 1.6 2.5 1.6 1.1 3.1 1 22 4.6 2.6-1.5-22-4.6-3.1-.9-2-1.3-1.6-2.3-1.2-3.1-3.9-16.5-1.2-3.3z"/><path transform="translate(16.93 -9.58)" d="M68.3 622.8l21.3 3.6 3.1 .3 2-.4 2.5-1.3-1.9 .3-3.6-.4-20.8-3.6zM97.2 625l1.6-1.3 1.6-3.4 5.1-21.9 1.2-1.6 .8 .6-2.6-5.8-.8-.7-1.2 1.9-5.1 27.3-1.6 4.4-1.5 1.8zM104.9 591.6l1.6 5.9 3.9 23.8 2 6.4 1.1 1.7 2 1.3 5.1 1.1 2.8-.1 2.5-1.3-3.1-.1-5.1-1.1-2-1.3-1.2-1.8-1.9-5.8-3.6-17.9-1.5-5zM125.9 630.4l2-1.5 1.6-3.6 5.1-21.8 1.1-1.3 .8 .8-2.5-5.8-.8-.9-1.2 1.6-5.1 27-1.6 4.7-1.9 2.1zM134 597.2l1.5 6.4 3.6 21.8 1.9 7.1 1.2 2.1 2 1.4 4.7 1 2.4-.4 2.5-1.2-2.3 .2-4.7-1-2-1.2-1.2-1.6-2-5.6-3.5-17.8-1.6-5.4zM153.8 635.4l1.6-1.4 1.6-3.5 5.1-21.8 1.2-1.3 .7 .8-2.5-5.7-.8-1-.4 .1-1.2 2.8-4.7 25.7-1.6 4.7-1.5 1.8zM161.5 602.5l1.6 6.3 3.5 21.9 2 7.1 1.1 2 2 1.5 5.5 1.3 2.8-.2 2.5-1.3-2.7 .1-5.5-1.3-2-1.2-1.2-1.6-1.9-5.7-3.6-17.8-1.6-5.4zM182.5 641.1l2-1.6 1.6-3.8 4.7-20.7 1.1-2 1.2 1.1-2.5-5.7-1.2-1.2-1.2 2.4-4.7 25.6-1.6 4.9-1.9 2.3zM190.6 608.4l1.5 6.7 4 23.7 1.1 4 1.6 2.9 1.6 1.3 3.1 1 22 4.7 2.6-1.5-21.6-4.5-3.2-.9-1.9-1.2-1.6-2.4-1.6-4.6-3.5-17.8-1.6-5.7z"/><path transform="translate(15.05 -8.52)" d="M68.3 622.8l20.9 3.6 3.5 .3 1.6-.4 2.5-1.2-5.9-.3-20-3.5zM96.8 625.1l1.6-1.3 1.6-3.4 5.1-25.8 1.2-3 .4-.2 .7 .7-2.5-5.7-.8-.8-1.2 2.2-5.1 31-1.6 5.2-1.9 2.3zM104.9 586.4l1.6 6.5 3.9 27 2 7.3 1.1 2.1 2 1.4 5.1 1.1 2.8-.3 2.5-1.2-2.7 .1-5.1-1.1-2-1.2-1.2-1.7-1.9-6-4-22.6-1.6-5.7zM125.9 630.3l2-2 1.6-4.3 5.1-25.7 1.1-1.5 .8 .9-2.5-5.6-.8-1.1-.4 .2-1.2 3-4.7 29.4-1.6 5.4-1.9 2.5zM134 592.1l1.5 7 3.6 24.7 1.9 8.2 1.2 2.3 2 1.7 4.3 1 2.4-.3 2.5-1.3-2.3 .2-4.4-1-1.9-1.4-1.2-1.9-2-6.7-3.5-20.8-1.6-6.1zM153.4 635.4l2-1.9 1.6-4.3 5.1-25.7 1.2-1.5 .7 .9-2.5-5.6-.8-1-.4 .1-1.2 3.1-4.7 29.3-1.6 5.4-1.9 2.5zM161.5 597.3l1.6 7 3.5 24.8 2.3 9.1 1.2 1.9 2 1.3 5.1 1.2 2.8-.4 2.5-1.2-2.7 .1-5.5-1.2-2-1.4-1.2-1.9-2-6.7-3.5-20.9-1.6-6.1zM182.5 641l1.6-1.4 1.6-3.8 4.7-24.4 1.2-3.3 .7-.4 .4 .4-2.5-5.7-.4-.5-.8 .5-1.2 3.9-5.1 30.8-1.2 3.3-1.5 1.8zM190.2 602.4l1.5 5.9 4.4 29.2 1.1 4.7 1.6 3.3 1.6 1.4 2.7 1 22.4 4.8 2.6-1.5-22-4.6-3.2-1-1.5-1.2-1.6-2.8-1.2-3.8-4.3-24.5-1.6-5.2z"/><path transform="translate(13.17 -7.45)" d="M68.3 622.8l21.3 3.6 3.1 .2 1.6-.4 2.5-1.3-1.9 .3-3.6-.4-20.4-3.5zM96.8 624.9l1.6-1.5 1.6-4 5.1-29.8 1.2-3.3 .4-.3 .7 .8-2.5-5.2-.8-.8-1.2 2.3-5.1 34.4-1.6 6-1.9 2.7zM104.9 581.6l1.6 7 3.9 29.9 2 8.3 1.1 2.3 2 1.5 5.1 1.2 2.8-.4 2.5-1.3-2.7 .3-5.1-1.2-2-1.3-1.2-2-2-6.9-3.9-25.9-1.6-6.3zM125.9 630.1l2-2.3 1.6-5.2 4.7-28.1 1.2-2.9 .3-.2 .8 1.1-2.5-5.2-.8-1.1-.4 .1-1.2 3.3-4.7 32.6-1.6 6.3-1.9 2.9zM134 587.3l1.5 7.5 3.6 27.4 1.9 9.2 1.2 2.7 2 1.8 4.3 1.1 2.4-.4 2.5-1.3-2.3 .2-4.4-1-1.9-1.5-1.2-2.3-2-7.8-3.5-23.7-1.6-6.7zM153.4 635.3l2-2.3 1.6-5.2 4.7-28 1.2-3 .4-.1 .7 1-2.5-5.2-.8-1.1-.4 .2-1.2 3.2-4.7 32.6-1.6 6.3-1.9 2.9zM161.5 592.5l1.6 7.5 3.9 29.8 1.9 8 1.2 2.1 2 1.5 4.7 1.1 2.8-.2 2.5-1.3-2.7 .1-5.1-1.3-2-1.6-1.2-2.2-2-7.8-3.5-23.7-1.6-6.8zM182.1 641l1.6-1.3 1.6-3.7 1.5-7.3 3.6-22.1 1.1-3.8 .8-.5 .4 .5-2.5-5.3-.4-.4-.8 .5-1.2 4.2-5.1 34.4-1.6 4.5-1.5 1.6zM190.2 597.5l1.9 9 4 29.7 1.1 5.3 1.6 3.8 1.6 1.6 2.7 1 22.4 4.8 2.6-1.5-22.4-4.7-2.8-1-1.5-1.4-1.6-3.1-1.2-4.5-4.3-28-1.6-5.7z"/><path transform="translate(11.29 -6.39)" d="M68.3 622.8l20.5 3.5 3.5 .3 1.6-.3 2.5-1.3-5.9-.3-19.6-3.4zM96.4 625l1.6-1.3 1.6-3.8 1.6-7.8 3.9-27.2 1.2-3.6 .4-.3 .7 .8-2.5-4.4-.8-.9-.4 .4-1.2 3.8-3.9 30.5-1.6 9-1.5 4.6-1.6 1.5zM104.9 577.4l1.6 7.3 3.9 32.4 2 9.2 1.1 2.6 2 1.7 4.7 1.1 2.8-.2 2.5-1.3-2.7 .1-4.7-1.1-2-1.5-1.2-2.2-2-8-3.9-28.8-1.6-6.9zM125.5 630.2l1.6-1.4 1.6-4 1.5-8.1 3.6-25 1.2-4.5 .7-.8 .4 .3-2.5-4.4-.4-.4-.8 .9-1.2 4.8-5.1 37.4-1.6 4.8-1.5 1.7zM133.6 582.3l1.5 6 4 32.4 1.9 10.2 1.2 3 1.6 1.7 3.9 1.3 2.8-.2 2.5-1.3-2.7 0-3.9-1.1-1.6-1.6-1.2-2.5-2-8.9-3.9-28.9-1.6-5.7zM153 635.4l1.6-1.4 1.6-4.1 1.6-8 3.5-25 1.2-4.5 .8-.7 .3 .3-2.5-4.5-.4-.3-.8 .8-1.2 4.8-5.1 37.4-1.6 4.8-1.5 1.7zM161.1 587.5l1.6 6.1 3.9 32.3 2.3 11.5 1.2 2.4 2 1.6 4.7 1.1 2.8-.3 2.5-1.3-2.7 .2-5.1-1.3-2-1.8-1.2-2.6-2-8.8-3.9-28.9-1.6-5.7zM182.1 640.9l1.6-1.5 1.6-4.3 5.1-33.2 1.1-4.1 .8-.5 .4 .5-2.5-4.5-.4-.5-.8 .6-1.2 4.3-5.1 37.6-1.6 5.1-1.5 1.8zM190.2 593.3l1.9 9.3 4 32.4 1.1 5.9 1.6 4.2 1.6 1.7 2.3 1 22.8 4.9 2.6-1.5-22.4-4.7-2.8-1.1-1.5-1.5-1.6-3.6-1.2-5.1-4.3-31.2-1.6-6.2z"/><path transform="translate(9.41 -5.32)" d="M68.3 622.8l20.5 3.5 3.5 .3 1.6-.3 2.5-1.4-1.9 .3-3.6-.4-20-3.5zM96.4 624.9l2-2.2 1.6-5.4 4.7-34.5 1.2-5.2 .8-1.1 .4 .2-2.6-3.5-.8 .2-.4 .8-1.2 5.3-3.5 30.2-1.6 9.8-1.5 5-1.6 1.8zM104.5 573.2l.8 1.8 1.2 6.4 3.5 31.6 2.4 12.9 1.1 2.8 2 1.9 4.7 1.1 2.8-.3 2.5-1.3-2.7 .2-4.7-1.1-2-1.7-1.2-2.5-2.3-11.5-4-31.4-1.5-5.4zM125.5 630.1l1.6-1.6 1.6-4.6 5.1-36.4 1.2-4.7 .7-.9 .4 .3-2.5-3.4-.8-.2-.4 .7-1.2 4.9-5.1 40.1-1.6 5.3-1.5 1.8zM133.6 578.8l.8 2.1 1.1 6.7 3.6 31.7 1.9 11.1 1.2 3.2 1.6 2 3.9 1.2 2.8-.2 2.5-1.3-2.7 .1-3.9-1.2-1.6-1.7-1.2-2.9-2-9.9-3.9-31.5-1.6-6zM153 635.3l1.6-1.6 1.6-4.6 5.1-36.4 1.2-4.7 .8-.8 .3 .3-2.5-3.5-.8-.1-.4 .6-1.2 4.9-5.1 40.1-1.6 5.2-1.5 1.9zM161.1 584l1.6 6.2 3.9 34.4 2.3 12.4 1.2 2.6 2 1.7 5.1 1.2 2.4-.4 2.5-1.3-2.7 .2-4.8-1.1-1.9-1.5-1.2-2.3-2.4-11.1-3.9-31.5-1.6-6zM182.1 640.8l1.6-1.8 1.6-4.8 5.1-36.5 1.1-4.4 .8-.5 .4 .5-2.5-3.5-.8-.4-.4 .5-1.2 4.5-5.1 40.1-1.6 5.6-1.5 2zM190.2 589.8l1.9 9.6 4 34.5 1.1 6.4 1.6 4.6 1.6 1.9 2.3 1 22.8 4.9 2.6-1.5-22.8-4.8-2.4-1-1.5-1.7-1.6-4-1.2-5.7-3.9-31.5-2-9.2z"/><path transform="translate(7.52 -4.26)" d="M68.3 622.8l20.9 3.5 3.1 .3 1.6-.4 2.5-1.4-1.5 .4-3.6-.4-20.4-3.5zM96.4 624.8l2-2.5 1.6-5.9 4.7-37.2 1.2-5.3 .4-.8 .8-.2-2.6-2.2-.8 .1-.4 .8-1.2 5.4-5.1 42-1.5 5.3-1.6 1.9zM104.5 570.7l.8 1.7 1.2 6.4 3.9 36.2 2 10.6 1.1 3 2 1.9 4.7 1.2 2.8-.3 2.5-1.4-2.7 .3-4.7-1.2-2-1.8-1.2-2.7-2.3-12.6-3.6-31-1.2-6.2-.7-1.9zM125.5 630l1.6-1.8 1.6-5.1 5.1-39.2 1.2-4.9 .4-.7 .7 .2-2.5-2.3-.8-.1-.4 .6-1.2 4.9-5.1 42.1-1.6 5.6-1.5 2.1zM133.6 576.2l.8 2.1 1.1 6.8 3.6 33.1 2 11.8 1.1 3.5 1.6 2 3.9 1.3 2.8-.3 2.5-1.3-2.7 .2-3.9-1.2-1.6-1.9-1.2-3.2-2-10.8-3.9-33.7-1.6-6.1zM153 635.2l1.6-1.8 1.6-5.1 5.1-39.2 1.2-4.9 .4-.6 .8 .1-2.6-2.2-.8-.2-.4 .6-1.2 4.9-5.1 42.1-1.5 5.6-1.6 2zM161.1 581.5l.8 2 1.2 6.8 3.5 33.2 2.4 13.2 1.1 2.8 1.6 1.6 4.3 1.2 3.2 0 2.5-1.4-3.1 0-4.3-1.2-1.6-1.5-1.2-2.5-2.3-12.1-4-33.7-1.5-6.2zM181.7 640.9l2-2.2 1.6-5.4 4.7-36.9 1.2-5.8 1.1-1.5-2.5-2.3-.8 .5-.4 1-1.2 5.9-4.7 39.6-1.6 6-1.9 2.5zM189.8 586.8l1.2 2.8 .7 4.4 4.8 41.7 1.1 5.8 1.2 3.3 1.6 1.9 2.4 1.1 22.7 4.9 2.6-1.5-22.8-4.8-2.3-1.1-1.6-1.8-1.2-2.9-1.2-5.3-4.7-39-1.2-5.8-.8-1.4z"/><path transform="translate(5.64 -3.19)" d="M68.3 622.8l20.9 3.5 3.1 .3 1.6-.4 2.5-1.4-1.5 .4-3.6-.4-20.4-3.5zM96.4 624.8l2-2.8 1.6-6.4 4.7-39.3 .8-4 1.2-2.4-2.6-1-1.2 2.2-.8 4.1-5.1 43.4-1.5 5.6-1.6 2zM104.1 568.9l1.2 1.8 1.2 6.3 3.9 37.3 2 11.1 1.1 3.1 2 2 4.7 1.2 2.8-.4 2.5-1.4-2.7 .3-4.7-1.1-2-1.9-1.2-2.9-1.9-10.5-4.4-38.2-.8-3.8-1.1-1.9zM125.5 629.9l1.6-1.9 1.6-5.6 4.7-38.8 1.2-6.4 1.1-1.9-2.5-1-1.2 1.8-1.2 6.3-4.7 40.8-1.6 6-1.5 2.1zM133.2 574.3l1.2 2.2 .8 4 4.3 40.1 1.9 10.6 1.2 2.9 1.6 1.7 3.9 1.1 2.4-.4 2.5-1.4-2.3 .3-3.9-1-1.6-1.6-1.2-2.7-2.4-13-3.9-35.4-.8-4-1.2-2.4zM153 635.1l1.6-2 1.6-5.5 4.7-38.8 1.2-6.3 1.2-2-2.6-1-1.2 1.8-1.2 6.3-4.7 40.8-1.5 5.9-1.6 2.2zM160.7 579.5l1.2 2.3 .8 4 4.3 40.1 2 10.6 1.1 2.9 1.6 1.7 4.3 1.2 3.2-.1 2.5-1.4-3.1 .1-4.3-1.2-1.6-1.6-1.2-2.7-2.3-13-4-35.4-.8-4.1-1.1-2.4zM181.7 640.8l2-2.3 1.6-5.9 4.7-39 1.2-5.9 .4-1 .7-.5-2.5-1-.8 .4-.4 1-1.2 5.8-4.7 41-1.6 6.3-1.9 2.5zM189.8 585.2l1.2 2.7 1.1 7.2 4.4 40.1 1.1 6 1.2 3.4 1.6 2.1 2.4 1.1 22.7 4.9 2.6-1.5-22.8-4.9-2.3-1-1.6-1.9-1.2-3.2-1.2-5.7-4.7-41.1-.8-4.4-1.2-2.8z"/><path transform="translate(3.76 -2.13)" d="M68.3 622.8l20.9 3.5 3.1 .3 1.6-.5 2.5-1.4-1.5 .4-3.2-.2-20.8-3.6zM96.4 624.7l2-2.9 1.6-6.7 4.3-38.1 1.2-6.8 1.2-2.3-2.6 .3-1.2 2-1.2 6.8-4.7 41.3-1.5 5.8-1.6 2zM104.1 568.2l1.2 1.6 1.2 6.3 3.9 37.8 2 11.4 1.1 3.1 2 2.1 4.7 1.2 2.8-.4 2.5-1.4-2.7 .3-4.7-1.1-2-2-1.2-3.1-1.9-11-4-36.9-1.2-6.3-1.1-1.9zM125.5 629.9l1.6-2.1 1.6-5.9 4.7-40.4 1.2-6.3 1.1-1.9-2.5 .3-1.2 1.6-1.2 6.3-4.7 41.5-1.6 6.1-1.5 2.2zM133.2 573.6l1.2 2 .8 4 4.3 40.7 1.9 10.8 1.2 3 1.6 1.7 3.9 1.1 2.4-.4 2.5-1.4-2.3 .3-3.9-1.1-1.6-1.6-1.2-2.9-2.4-13.6-3.9-36.6-.8-4-1.2-2.3zM153 635.1l1.6-2.1 1.6-5.9 4.7-40.4 1.2-6.3 1.2-1.8-2.6 .2-1.2 1.6-1.2 6.3-4.7 41.5-1.5 6.1-1.6 2.2zM160.7 578.8l1.2 2.1 .8 3.9 4.3 40.7 2 10.9 1.1 2.9 1.6 1.8 4.3 1.2 3.2-.1 2.5-1.4-3.1 .1-4.3-1.3-1.6-1.6-1.2-2.9-2.3-13.6-4-36.6-.8-4-1.1-2.3zM181.7 640.8l2-2.5 1.6-6.2 4.7-40.6 .8-4.4 1.1-2.9-2.5 .3-1.2 2.6-.8 4.4-4.7 41.6-1.6 6.5-1.9 2.6zM189.4 584.5l1.2 1.1 1.1 5.7 4.4 40.8 1.1 7.3 1.6 5.2 1.6 2.1 2.4 1.1 22.7 4.9 2.6-1.5-22.8-4.9-2.3-1-1.6-2.1-1.6-5-1.2-7-4.3-39.9-1.2-5.7-.4-.9-.8-.5z"/><path transform="translate(1.88 -1.06)" d="M69 622.4l20.8 3.5 3.2 .3 1.6-.4 1.8-1.1-1.5 .4-3.2-.2-20.8-3.6zM96.4 624.7l1.6-2 1.6-5.8 4.7-41.1 1.2-6.8 1.2-2.1-1.9 .8-1.2 2-1.2 6.7-4.7 41.5-1.6 5.8-1.5 2.1zM104.8 567.7l1.2 1.6 1.1 6.2 4 37.9 1.9 11.5 1.2 3.1 2 2.1 4.7 1.2 2.7-.4 1.9-1.1-2.7 .4-4.7-1.1-2-2.1-1.2-3.2-1.9-11.3-4-37.6-1.2-6.3-1.1-1.7zM125.5 629.8l1.6-2.1 1.6-6.1 4.7-41.3 .8-4.8 1.2-3.1-1.9 .8-1.2 3-.8 4.7-4.7 41.7-1.6 6.1-1.6 2.2zM133.5 573.2l.8 .1 .4 .7 1.1 5 4.4 40.8 1.9 10.9 1.2 3 1.6 1.7 3.9 1.1 2.4-.4 1.8-1.1-2.3 .4-3.9-1.1-1.6-1.7-1.2-2.9-2-10.8-4.3-40.5-1.2-5.2-.4-.6-.7-.2zM153 635l1.6-2.2 1.6-6 4.7-41.3 .8-4.7 1.2-3.2-1.9 .8-1.2 3-.8 4.7-4.7 41.7-1.6 6.1-1.5 2.2zM161 578.4l.8 .2 .4 .6 1.1 5.1 4.4 40.8 1.9 10.9 1.2 2.9 1.6 1.8 4.3 1.2 3.1-.1 1.9-1-3.1 .1-4.3-1.3-1.6-1.7-1.2-2.9-2-10.8-4.3-40.6-1.2-5.1-.4-.7-.7-.2zM181.7 640.8l2-2.7 1.6-6.4 4.7-41.4 .8-4.4 1.1-2.7-1.8 .8-1.2 2.5-.8 4.4-4.7 41.8-1.6 6.5-2 2.6zM190.1 584l1.1 1.1 1.2 5.6 4.3 41 1.2 7.3 1.6 5.2 1.6 2.1 2.3 1.1 22.8 4.9 1.9-1.1-22.8-4.9-2.4-1.1-1.5-2.1-1.6-5.1-1.2-7.2-4.3-40.8-1.2-5.6-1.2-1.2z"/></g>
<g text-anchor="middle" font-size="12"><text x="70.4" y="665.3">20</text><text x="90.1" y="669.0">15</text><text x="109.7" y="672.8">10</text><text x="129.3" y="676.5">5</text><text x="149.0" y="680.2">0</text><text x="166.7" y="684.0">-5</text><text x="186.3" y="687.7">-10</text><text x="205.9" y="691.5">-15</text><text x="225.6" y="695.2">-20</text><text x="241.7" y="689.9">0</text><text x="256.8" y="681.4">1</text><text x="271.8" y="672.9">2</text><text x="286.9" y="664.3">3</text><text x="301.9" y="655.8">4</text><text x="316.9" y="647.3">5</text><text x="332.0" y="638.8">6</text></g>
<g text-anchor="middle" font-size="13.3"><text x="126.0" y="692.0">z</text><text x="312.0" y="671.0">ρ</text><text x="20.6" y="560.0" text-anchor="start">q(z,ρ)</text></g>
<g text-anchor="end" font-size="12"><text x="64.4" y="624.2">0</text><text x="64.4" y="600.0">5</text><text x="64.4" y="575.8">10</text></g>
<!-- k -->
<g fill="none" stroke="#000" stroke-width=".55">
<path d="M397.7 656.2L555.0 686.4L645.9 635.4L488.6 605.2Z"/>
<path d="M414.5 659.4L416.0 658.6M505.4 608.4L504.0 609.3M445.4 665.4L446.9 664.5M536.3 614.4L534.9 615.2M476.4 671.3L477.8 670.5M567.2 620.3L565.8 621.1M507.3 677.2L508.7 676.4M598.2 626.2L596.7 627.1M538.2 683.2L539.6 682.3M629.1 632.2L627.6 633.0M570.1 677.9L566.8 677.3M412.8 647.7L416.2 648.3M585.3 669.4L582.0 668.8M428.0 639.2L431.3 639.8M600.5 660.9L597.1 660.3M443.1 630.7L446.5 631.3M615.6 652.4L612.3 651.8M458.3 622.2L461.6 622.8M630.8 643.9L627.4 643.3M473.4 613.7L476.8 614.3"/>
</g>
<g fill="none" stroke-width=".42">
<path d="M469.9 670.1l8-4.8 6-4 4-3.2 1.2-1.4 .1-.5-1.1-.4-1.2 .2-6.9 2.4-9.5 4.4-10.3 5.4M515.1 678.7l8-4.7 6-4 4-3.2 1.3-1.9-1-.4-1.2 .1-6.6 2.3-9.3 4.2-11 5.8" stroke="#00c000" stroke-dasharray="2 1"/>
<path d="M544.7 616l-91.2 50.9M476.7 671.4l90.6-51.1M589.8 624.6l-91.2 51" stroke="#0000ff" stroke-dasharray="1 2"/>
<path d="M438 663.9l9.5-5 8.7-4 5.4-2 1.5-.3 1.7 0 .1 .5-.4 .7-3.6 3.1-5.9 4-8 4.8M483.1 672.6l9.5-5 8.8-4 5.5-2.1 1.5-.3 1.5 .1 .1 .5-.7 1-3.9 3.2-6 4-7.3 4.3" stroke="#ff00ff" stroke-dasharray=".7 .5"/>
</g>
<g fill="none" stroke="#000" stroke-width=".6">
<path d="M397.5 656.2L397.5 555.6M397.5 607.5L401.0 607.5M397.5 589.5L401.0 589.5M397.5 570.5L401.0 570.5M555.5 686.4L555.5 619.2"/>
</g>
<linearGradient id="Pk" gradientUnits="userSpaceOnUse" x1="397.70" y1="621.89" x2="409.81" y2="558.82"><stop offset="0" stop-color="#ecdce6"/><stop offset="0.026" stop-color="#e2cdd9"/><stop offset="0.053" stop-color="#d4b9c6"/><stop offset="0.088" stop-color="#c3a0ac"/><stop offset="0.132" stop-color="#aa8087"/><stop offset="0.177" stop-color="#91625f"/><stop offset="0.221" stop-color="#7a463a"/><stop offset="0.256" stop-color="#642816"/><stop offset="0.295" stop-color="#46050a"/><stop offset="0.343" stop-color="#370050"/><stop offset="0.396" stop-color="#32008c"/><stop offset="0.45" stop-color="#3200be"/><stop offset="0.52" stop-color="#2f00d9"/><stop offset="0.542" stop-color="#2d00e6"/><stop offset="0.622" stop-color="#1e00ff"/><stop offset="0.701" stop-color="#0058ff"/><stop offset="0.787" stop-color="#0096ff"/><stop offset="0.851" stop-color="#00cdff"/><stop offset="0.893" stop-color="#00ebff"/><stop offset="0.925" stop-color="#00ffff"/><stop offset="1" stop-color="#00ffff"/></linearGradient>
<g stroke-width=".4" stroke-linejoin="round" fill="url(#Pk)" stroke="url(#Pk)"><path d="M484.1 540.5l28.3 5.5 17 4.5 17.7 1.1 5.1 .7 22.4 6.9 22 1.6 16.1 4.3 28.7 5.6 4.5-2.5-28.7-5.6-16.1-4.2-22.1-1.8-22.4-6.7-22.8-2-16.9-4.4-28.3-5.5z" fill="#2f00d9" stroke="#2f00d9"/><path d="M482.2 541.6l28.4 5.5 16.9 4.5 17.7 1 5.1 .7 22.4 7 22 1.5 16.1 4.4 28.7 5.6 2.6-1.5-28.7-5.6-16.1-4.3-22-1.6-22.5-6.9-5.1-.7-17.7-1.1-16.9-4.5-28.3-5.5z" fill="#2f00d9" stroke="#2f00d9"/><path d="M481.3 542.1l28.3 5.5 16.9 4.5 17.7 1 5.1 .7 17.3 5.7 5.1 1.3 22.1 1.5 16.1 4.4 28.7 5.6 1.6-.9-28.7-5.6-16.1-4.3-22-1.6-22.4-7-5.2-.7-17.7-1-16.9-4.5-28.3-5.5z" fill="#2f00d9" stroke="#2f00d9"/><path transform="translate(83.8 -47.02)" d="M396.5 589.7l28.4 5.5 16.9 4.5 17.7 .9 5.1 .7 17.3 5.8 5.1 1.3 22 1.5 16.1 4.3 28.7 5.7 1.7-1-28.7-5.6-16.2-4.3-22-1.6-22.4-6.9-5.1-.7-17.7-1-16.9-4.5-28.3-5.6z"/><path transform="translate(82.85 -46.48)" d="M396.5 589.6l28.4 5.6 16.9 4.5 17.7 .9 5.1 .7 17.3 5.8 5.1 1.3 22 1.4 16.1 4.4 28.7 5.6 1.7-.9-28.7-5.6-16.2-4.3-22-1.6-5.1-1.2-17.3-5.8-5.1-.7-17.7-.9-16.9-4.5-28.3-5.6z"/><path transform="translate(81.9 -45.95)" d="M396.5 589.6l28.4 5.6 16.9 4.5 17.7 .9 5.1 .7 17.3 5.8 5.1 1.3 22 1.4 16.1 4.4 28.7 5.6 1.7-.9-28.7-5.6-16.2-4.4-22-1.4-5.1-1.3-17.3-5.8-5.1-.7-17.7-.9-16.9-4.5-28.3-5.6z"/><path transform="translate(80.96 -45.42)" d="M396.5 589.6l28.4 5.6 16.9 4.6 17.7 .8 5.1 .7 17.3 5.8 5.1 1.3 22 1.4 16.1 4.4 28.7 5.6 1.7-.9-28.7-5.6-16.2-4.4-22-1.4-5.1-1.3-17.3-5.8-5.1-.7-17.7-.9-16.9-4.5-28.3-5.6z"/><path transform="translate(80.01 -44.89)" d="M396.5 589.6l28.4 5.6 16.9 4.6 17.7 .8 5.1 .7 17.3 5.9 5.1 1.3 22 1.3 16.1 4.4 28.7 5.6 1.7-.9-28.7-5.6-16.2-4.4-22-1.4-5.1-1.3-17.3-5.8-5.1-.7-17.7-.9-16.9-4.5-28.3-5.6z"/><path transform="translate(79.06 -44.36)" d="M396.5 589.6l28.8 5.7 16.5 4.5 17.7 .8 5.1 .6 17.3 6 5.1 1.3 22 1.2 16.1 4.5 28.7 5.6 1.7-.9-28.7-5.6-16.2-4.4-22-1.4-5.1-1.3-17.3-5.8-5.1-.7-17.7-.8-16.9-4.6-28.3-5.6z"/><path transform="translate(78.12 -43.83)" d="M396.5 589.7l28.7 5.6 16.6 4.5 5.1 .5 12.6 .2 4.7 .6 17.7 6.1 5.1 1.3 22 1.2 16.1 4.5 28.7 5.6 1.7-.9-28.7-5.6-16.2-4.4-22-1.4-5.1-1.3-17.3-5.9-5.1-.6-17.7-.8-16.9-4.6-28.3-5.6z"/><path transform="translate(77.17 -43.3)" d="M396.5 589.7l28.8 5.6 16.5 4.6 5.1 .5 12.6 .1 4.7 .6 17.7 6.1 5.1 1.3 22 1.2 16.1 4.5 28.7 5.7 1.7-1-28.7-5.6-16.2-4.5-22-1.2-5.1-1.3-17.7-6.1-4.7-.6-17.7-.7-16.5-4.5-28.7-5.7z"/><path transform="translate(76.22 -42.77)" d="M396.5 589.7l28.8 5.6 16.5 4.6 5.1 .5 12.6 .1 4.7 .6 5.1 1.4 12.6 4.7 5.1 1.3 22 1.2 16.1 4.5 28.7 5.7 1.7-1-28.7-5.6-16.2-4.5-22-1.2-5.1-1.3-17.7-6.1-4.7-.6-12.6-.2-5.1-.5-16.5-4.5-28.7-5.7z"/><path transform="translate(75.28 -42.23)" d="M396.5 589.6l28.7 5.7 16.6 4.6 5.1 .5 12.6 .1 4.7 .5 5.1 1.5 12.6 4.7 5.1 1.4 22 1 16.1 4.6 28.7 5.6 1.7-.9-28.7-5.6-16.2-4.5-22-1.2-5.1-1.3-17.7-6.1-4.7-.6-12.6-.2-5.1-.5-16.5-4.6-28.7-5.6z"/><path transform="translate(74.33 -41.7)" d="M396.5 589.6l28.8 5.7 16.5 4.6 5.1 .5 12.6 .1 4.7 .5 4.7 1.3 13 5 5.1 1.3 22 1 16.1 4.6 28.7 5.6 1.7-.9-28.7-5.6-16.2-4.6-22-1.1-5.1-1.3-12.6-4.7-5.1-1.5-4.7-.5-12.6-.1-5.1-.5-16.5-4.6-28.7-5.7z"/><path transform="translate(73.38 -41.17)" d="M396.5 589.6l28.8 5.7 16.5 4.6 5.1 .5 12.6 0 4.7 .6 4.7 1.3 13 5 5.1 1.3 22 1 16.1 4.6 28.7 5.6 1.7-.9-28.7-5.6-16.2-4.6-22-1-5.1-1.4-12.6-4.7-5.1-1.5-4.7-.5-12.6-.1-5.1-.5-16.5-4.6-28.7-5.7z"/><path transform="translate(72.44 -40.64)" d="M396.5 589.6l28.7 5.7 16.6 4.7 5.1 .4 13 0 4.3 .5 4.7 1.4 13 5 5.1 1.3 22 .9 16.1 4.7 28.7 5.6 1.7-.9-28.7-5.6-16.2-4.6-22-1-5.1-1.4-13-4.9-4.7-1.3-4.7-.6-12.6 0-5.1-.5-16.5-4.6-28.7-5.7z"/><path transform="translate(71.49 -40.11)" d="M396.5 589.6l28.8 5.7 16.5 4.7 5.1 .4 13 0 4.3 .5 4.7 1.4 13 5 5.1 1.4 22 .8 16.1 4.7 28.7 5.6 1.7-.9-28.7-5.6-16.2-4.7-22-.9-5.1-1.3-13-5-4.7-1.3-4.7-.6-12.6 0-5.1-.5-16.5-4.6-28.7-5.7z"/><path transform="translate(70.54 -39.58)" d="M396.5 589.7l28.8 5.6 16.5 4.7 5.1 .5 13-.1 4.3 .5 4.7 1.4 13 5 5.1 1.4 22 .8 16.1 4.7 28.7 5.6 1.7-.9-28.7-5.6-16.2-4.7-22-.9-5.1-1.3-13-5-4.7-1.4-4.3-.5-13 0-5.1-.4-16.5-4.7-28.7-5.7z"/><path transform="translate(69.6 -39.05)" d="M396.5 589.7l28.7 5.6 16.6 4.8 5.1 .4 13-.2 4.3 .5 4.7 1.4 13 5.2 5.1 1.3 22 .7 16.1 4.8 28.7 5.7 1.7-1-28.7-5.6-16.2-4.7-22-.8-5.1-1.4-13-5-4.7-1.4-4.3-.5-13 0-5.1-.4-16.5-4.7-28.7-5.7z"/><path transform="translate(68.65 -38.52)" d="M396.5 589.7l28.8 5.6 16.5 4.8 5.1 .4 13-.2 4.3 .5 4.7 1.4 13 5.2 5.1 1.4 22 .6 16.1 4.8 28.7 5.7 1.7-1-28.7-5.6-16.2-4.8-22-.7-5.1-1.4-13-5.1-4.7-1.4-4.3-.5-13 .2-5.1-.5-16.5-4.7-28.7-5.7z"/><path transform="translate(67.7 -37.98)" d="M396.5 589.6l28.8 5.7 16.5 4.8 5.1 .4 13-.2 4.3 .4 4.7 1.5 13 5.2 5.1 1.4 5.1 .4 13-.3 3.9 .4 15.7 4.8 29.1 5.7 1.7-.9-28.7-5.6-16.2-4.8-22-.7-5.1-1.3-13-5.2-4.7-1.4-4.3-.5-13 .2-5.1-.4-16.5-4.8-28.7-5.7z"/><path transform="translate(66.75 -37.45)" d="M396.5 589.6l28.8 5.7 16.5 4.9 5.1 .3 13-.3 4.3 .5 4.3 1.3 13.4 5.4 5.1 1.4 5.1 .4 13-.3 3.9 .4 15.7 4.8 29.1 5.7 1.7-.9-28.7-5.6-16.2-4.9-3.9-.4-13 .3-5.1-.4-5.1-1.4-13-5.2-4.7-1.5-4.3-.4-13 .2-5.1-.4-16.5-4.8-28.7-5.7z"/><path transform="translate(65.81 -36.92)" d="M396.5 589.6l28.7 5.7 16.6 4.9 5.1 .4 13-.4 4.3 .4 4.3 1.3 13.4 5.6 5.1 1.4 5.1 .3 13-.4 3.9 .4 15.7 4.9 29.1 5.7 1.7-.9-29.1-5.7-15.8-4.8-3.9-.4-13 .3-5.1-.4-5.1-1.4-13.4-5.4-4.3-1.3-4.3-.5-13 .3-5.1-.4-16.5-4.8-28.7-5.7z"/><path transform="translate(64.86 -36.39)" d="M396.5 589.6l28.8 5.7 16.5 5 5.1 .3 13.4-.5 3.9 .5 4.3 1.3 13.8 5.7 4.7 1.3 5.1 .4 13-.5 3.9 .3 15.7 5 29.1 5.7 1.7-.9-29.1-5.7-15.8-4.9-3.9-.3-13 .3-5.1-.4-5.1-1.4-13.4-5.4-4.3-1.4-4.3-.4-13 .3-5.1-.3-16.5-4.9-28.7-5.7z"/><path transform="translate(63.91 -35.86)" d="M396.5 589.6l28.8 5.7 16.5 5 5.1 .3 13.4-.5 3.9 .4 4.3 1.4 13.8 5.8 4.7 1.3 5.1 .3 13-.5 3.9 .3 15.7 5 29.1 5.7 1.7-.9-29.1-5.7-15.8-4.9-3.9-.4-13 .4-5.1-.3-4.7-1.3-13.8-5.7-4.3-1.3-3.9-.4-13.4 .4-5.1-.4-16.5-4.9-28.7-5.7z"/><path transform="translate(62.97 -35.33)" d="M396.5 589.7l28.7 5.6 16.6 5.1 5.1 .3 13.3-.7 4 .4 3.9 1.3 14.2 6 4.7 1.3 5.1 .3 13.4-.6 3.5 .3 15.7 5.1 29.1 5.7 1.7-.9-29.1-5.7-15.8-5-3.9-.3-13 .5-5.1-.4-4.7-1.3-13.8-5.7-4.3-1.4-3.9-.4-13.4 .5-5.1-.3-16.5-5-28.7-5.7z"/><path transform="translate(62.02 -34.8)" d="M396.5 589.7l28.8 5.6 16.5 5.1 5.1 .3 13.4-.7 3.9 .3 3.9 1.3 14.2 6.2 4.7 1.3 5.1 .2 13.4-.7 3.5 .3 15.7 5.2 29.1 5.8 1.7-1-29.1-5.7-15.8-5.1-3.9-.3-13 .6-5.1-.3-4.7-1.3-14.2-6-3.9-1.2-3.9-.4-13.4 .5-5.1-.3-16.5-5-28.7-5.7z"/><path transform="translate(61.07 -34.27)" d="M396.5 589.7l29.1 5.7 16.2 5.1 4.7 .2 14.1-.8 3.6 .3 3.9 1.3 14.2 6.3 4.7 1.4 4.7 .2 13.8-.8 3.5 .2 15.4 5.2 29.4 5.9 1.7-1-29.1-5.7-15.8-5.1-3.5-.3-13.4 .6-5.1-.3-4.7-1.3-14.2-6.1-3.9-1.2-3.9-.4-13.4 .7-5.1-.3-16.5-5.1-28.7-5.7z"/><path transform="translate(60.13 -33.73)" d="M396.5 589.6l29.1 5.8 16.2 5.1 4.7 .3 14.1-1 3.6 .3 3.5 1.2 14.6 6.5 4.7 1.4 4.7 .2 13.8-.9 3.5 .2 15.3 5.3 29.5 5.8 1.7-.9-29.5-5.8-15.4-5.1-3.5-.3-13.8 .7-4.7-.2-4.7-1.4-14.2-6.1-3.9-1.3-3.9-.4-13.4 .8-5.1-.3-16.5-5.1-28.7-5.7z"/><path transform="translate(59.18 -33.2)" d="M396.5 589.6l29.1 5.8 16.2 5.2 4.7 .2 14.1-1.1 3.6 .3 3.5 1.2 14.6 6.7 4.7 1.4 4.7 .2 14.2-1.1 3.1 .2 15.4 5.4 29.4 5.8 1.7-.9-29.5-5.8-15.4-5.2-3.5-.3-13.8 .9-4.7-.3-4.7-1.3-14.2-6.3-3.9-1.3-3.5-.3-14.2 .8-4.7-.2-16.1-5.1-29.1-5.8z"/><path transform="translate(58.23 -32.67)" d="M396.5 589.6l29.1 5.8 16.2 5.3 4.7 .1 14.1-1.1 3.6 .2 3.5 1.2 14.6 6.8 4.7 1.5 4.7 .1 14.2-1.2 3.1 .2 15.4 5.5 29.4 5.8 1.7-.9-29.5-5.8-15.4-5.3-3.5-.2-13.8 .9-4.7-.2-4.7-1.4-14.5-6.5-3.6-1.2-3.5-.3-14.2 1-4.7-.3-16.1-5.1-29.1-5.8z"/><path transform="translate(57.29 -32.14)" d="M396.5 589.6l29.1 5.8 16.2 5.4 4.7 .1 14.1-1.3 3.6 .2 3.5 1.3 14.6 6.9 4.7 1.4 4.7 .1 14.2-1.3 3.1 .2 15 5.5 29.8 5.9 1.7-.9-29.5-5.8-15.4-5.4-3.1-.2-14.2 1.1-4.7-.2-4.7-1.4-14.6-6.7-3.5-1.2-3.5-.3-14.2 1.1-4.7-.2-16.1-5.2-29.1-5.8z"/><path transform="translate(56.34 -31.61)" d="M396.5 589.6l29.5 5.9 15.8 5.4 4.7 0 14.5-1.5 3.2 .3 3.1 1.1 15.4 7.4 4.3 1.3 4.7 .1 14.2-1.5 3.1 .2 15 5.6 29.8 5.9 1.7-.9-29.5-5.8-15.4-5.5-3.1-.2-14.2 1.2-4.7-.1-4.7-1.5-14.5-6.8-3.6-1.2-3.5-.3-14.2 1.2-4.7-.1-16.1-5.3-29.1-5.8z"/><path transform="translate(55.39 -31.08)" d="M396.5 589.7l29.5 5.8 15.8 5.5 4.3 0 14.9-1.7 3.2 .2 3.1 1.2 15.4 7.6 4.3 1.3 4.3 .1 14.6-1.7 3.1 .1 9.8 4.2 5.2 1.6 29.8 5.9 1.7-.9-29.9-5.9-15-5.5-3.1-.2-14.2 1.3-4.7 0-4.7-1.5-14.9-7.2-3.2-1-3.1-.3-14.6 1.4-4.7-.1-16.1-5.4-29.1-5.8z"/><path transform="translate(54.45 -30.55)" d="M396.5 589.7l29.5 5.8 15.8 5.6 4.3 0 14.9-1.9 3.2 .2 3.1 1.2 15.4 7.8 4.3 1.4 4.3-.1 15-1.9 2.7 .2 9.8 4.2 4.8 1.6 30.2 6.1 1.7-1-29.9-5.9-4.7-1.5-10.3-4.2-3.1-.1-14.2 1.5-4.7 0-4.3-1.4-15.3-7.5-3.2-1.1-3.1-.2-14.6 1.5-4.7 0-15.7-5.4-29.5-5.9z"/><path transform="translate(53.5 -30.02)" d="M396.5 589.7l29.5 5.8 15.8 5.7 4.3 0 14.9-2.1 3.2 .1 2.7 1 15.8 8.3 4.3 1.4 4.3-.1 15-2.1 2.7 .1 9.8 4.4 4.8 1.6 30.2 6.1 1.7-1-29.9-5.9-5.1-1.6-9.9-4.2-2.7-.2-15 1.8-4.3 0-4.3-1.4-15.3-7.7-3.2-1.1-3.1-.2-15 1.7-4.3 0-15.7-5.5-29.5-5.9z"/><path transform="translate(52.55 -29.48)" d="M396.5 589.6l29.9 6 15.4 5.7 3.9 0 15.3-2.4 3.2 .1 2.7 1.1 15.8 8.4 3.9 1.4 3.5 .1 15.8-2.4 3.1 0 2.8 1 6.7 3.4 5.1 1.8 30.2 6 1.7-.9-30.3-6-4.7-1.6-9.9-4.3-2.7-.1-15 1.9-4.3 .1-4.3-1.4-15.3-7.9-3.2-1.2-3.1-.2-15 2-4.3 0-15.7-5.6-29.5-5.9z"/><path transform="translate(51.6 -28.95)" d="M396.5 589.6l29.9 6 5.1 1.6 7.5 3.5 2.8 .8 3.9-.1 15.7-2.7 2.8 .1 2.7 1.1 15.8 8.7 3.9 1.5 3.5 0 16.2-2.7 2.7 0 2.8 1 6.7 3.6 4.7 1.7 30.6 6.1 1.7-.9-30.3-6-4.7-1.6-7.1-3.5-2.8-1-2.7-.1-14.9 2.2-4.4 .1-4.3-1.4-15.7-8.3-2.8-1.1-3.1-.1-15 2.2-4.3 0-15.7-5.7-29.5-5.9z"/><path transform="translate(50.66 -28.42)" d="M396.5 589.6l29.9 6 5.1 1.7 7.5 3.6 2.8 .8 2.7-.1 9.5-1.4 7.4-1.7 2.8 .1 2.7 1.1 16.2 9.3 3.5 1.3 3.5-.1 16.2-3 2.7 0 2.8 1 6.7 3.8 4.7 1.7 30.6 6.1 1.7-.9-30.3-6-5.1-1.8-6.7-3.5-2.8-1-2.7 0-16.1 2.5-3.6 0-3.9-1.4-15.7-8.6-2.8-1-2.7-.2-15.8 2.5-3.9 .1-15.3-5.8-29.9-6z"/><path transform="translate(49.71 -27.89)" d="M396.5 589.6l30.3 6.1 5.1 1.7 7.1 3.6 2.8 .8 2.7 0 9.5-1.6 7.4-1.9 2.8 .1 2.3 .9 16.6 9.8 3.5 1.3 3.1 0 10.3-1.8 6.3-1.6 2.7 0 2.4 .8 7.1 4.1 4.7 1.8 30.6 6.1 1.7-.9-30.7-6.2-4.7-1.6-6.7-3.7-2.8-1-2.7 0-16.1 2.8-3.6 0-3.9-1.4-15.7-8.8-2.8-1.1-2.7-.2-7.9 1.6-9 1.3-2.8 0-2.8-.8-7.4-3.5-5.1-1.6-29.9-6z"/><path transform="translate(48.76 -27.36)" d="M396.5 589.6l30.3 6.1 5.1 1.8 7.1 3.7 2.8 .8 2.7-.1 9.9-1.8 7-2 2.8 0 2.3 1 6.3 4.2 10.3 5.9 3.5 1.4 3.1 0 10.7-2.1 5.9-1.7 2.7-.1 2.4 .9 6.7 4.1 4.7 1.8 31 6.3 1.7-.9-30.7-6.2-4.7-1.6-6.7-3.9-2.8-1-2.7 0-16.1 3.2-3.6 0-3.5-1.3-16.1-9.3-2.8-1.2-2.7-.1-7.5 1.8-9.4 1.5-2.8 0-2.8-.8-7.4-3.6-5.1-1.7-29.9-6z"/><path transform="translate(47.82 -26.83)" d="M396.5 589.7l30.7 6.1 4.7 1.7 7.1 3.9 2.8 .8 2.3 0 10.2-2.2 7.1-2.1 2.8 0 2.3 1 5.9 4.2 11.1 6.5 3.1 1.2 3.1-.1 10.7-2.2 5.9-1.9 2.7-.2 2.4 .9 6.7 4.4 4.7 1.8 31 6.3 1.7-.9-30.7-6.2-4.7-1.7-7.1-4.2-2.4-.8-2.7 0-5.9 1.6-10.6 2-3.2 0-3.5-1.4-16.5-9.8-2.4-1-2.7-.1-7.1 1.9-9.9 1.7-2.7 .1-2.8-.9-7-3.6-5.1-1.7-30.3-6.1z"/><path transform="translate(46.87 -26.3)" d="M396.5 589.7l30.7 6.1 5.1 1.9 6.7 3.9 2.8 .9 2.3-.1 10.3-2.4 4.7-1.6 1.6-.6-5.1 1.4-9.4 1.9-2.8 .1-2.8-.9-7-3.7-5.1-1.8-30.3-6.1zM460.7 597.8l1.2-.4-1.6 .6-1.2 .4zM460.3 598l2.7-.6 2.8 .8 7.4 5.3 10.6 6.5 2.4 1 3.2 0 10.6-2.5 3.9-1.3 1.6-.7-14.1 3.2-3.6 0-2.7-1.1-9.8-5.7-7.9-5.2-2.8-.7-2.7 .4zM505.5 606.5l1.6-.5-1.6 .6-1.6 .6zM505.5 606.6l2.3-.5 2.4 .4 7.9 5.1 5.9 2.3 29.8 6 1.7-1-29.9-5.9-5.9-2.2-7.9-4.7-2.3-.5-2.4 .4z"/><path transform="translate(45.92 -25.77)" d="M396.5 589.7l31.1 6.3 4.7 1.7 6.7 4.1 2.4 .9 2.7-.1 13.8-3.8 1.6-.7-13.3 3.1-2.8 .2-2.8-.9-7-3.9-4.7-1.7-30.7-6.2zM459.5 598.1l3.6-1.2-1.7 .4-3.5 1.5zM461.4 597.3l2.4-.1 2 .7 7.4 5.6 10.6 6.7 2.4 1.1 3.2-.1 13.7-3.8 1.6-.7-13.7 3.2-3.2 0-2.7-1.1-10.2-6.2-7.5-5.1-2-.7-2.3 .1zM504.7 606.7l3.2-1.1-1.6 .5-3.2 1.3zM506.3 606.1l1.9-.3 2 .4 7.5 5.2 5.5 2.2 30.6 6.3 1.7-1-30.3-6.1-5.5-2-7.9-5-1.9-.4-2 .2z"/><path transform="translate(44.98 -25.23)" d="M396.5 589.6l31.1 6.4 5.1 1.9 6.3 4.1 2.4 .9 2.7-.1 13.4-4 1.6-.7-13.3 3.4-2.8 .1-2.4-.9-6.6-3.9-5.2-1.9-30.6-6.2zM459.1 598.1l4.3-1.6-1.6 .4-4.3 1.9zM461.8 596.9l2-.1 2 .8 7 5.6 11 7.3 2.4 1 2.8 0 13.3-3.9 1.7-.7-13 3.2-3.2 0-2.3-.9-10.6-6.6-7.5-5.4-2-.7-2 0zM504 606.9l4.7-1.7-1.7 .4-4.7 2zM507 605.6l2-.1 1.6 .6 7.1 5.2 5.1 2.2 31 6.3 1.7-.9-30.7-6.2-5.5-2.2-7.1-4.8-3.5-.5z"/><path transform="translate(44.03 -24.7)" d="M396.5 589.6l31.1 6.4 5.1 2 6.3 4.3 2.4 .9 2.7-.2 12.6-4 1.6-.7-12.5 3.4-2.8 .1-2.4-.9-6.2-3.9-5.2-2-31-6.3zM458.3 598.3l5.5-2.1-1.6 .3-5.5 2.5zM462.2 596.5l1.6 0 2 .7 7 5.9 11 7.6 2.4 1.1 2.8-.1 12.9-4 1.7-.8-12.6 3.4-3.2 .1-2.3-1-10.6-6.8-7.5-5.7-2-.7-1.6 0zM503.6 606.9l5.5-2.1-1.7 .3-5.5 2.6zM507.4 605.1l3.2 .6 7.1 5.5 5.1 2.3 31 6.3 1.7-.9-31.1-6.3-5.1-2.2-7.1-5-3.1-.6z"/><path transform="translate(43.08 -24.17)" d="M396.5 589.6l31.5 6.5 4.7 1.9 6.3 4.5 2.4 1.1 2.3-.2 5.1-2.1 7.5-2.2 1.7-.7-12.2 3.5-2.8 .2-2.4-.9-6.2-4.2-5.2-1.9-31-6.4zM458 598.4l5.8-2.6-1.6 .4-5.9 2.9zM462.2 596.2l1.6-.1 2 .8 7 6.2 11 7.9 2.4 1.1 2.8-.1 12.5-4.3 1.7-.7-12.6 3.7-2.8 0-2.3-1.1-11-7.4-7.1-5.6-2-.8-1.6 0zM503.2 607l5.9-2.5-1.7 .3-5.9 2.9zM507.4 604.8l1.6-.1 1.6 .7 6.7 5.5 5.1 2.5 31.4 6.4 1.7-.9-31.1-6.3-5.1-2.2-7.1-5.4-3.1-.5z"/><path transform="translate(42.14 -23.64)" d="M396.5 589.6l31.5 6.5 4.7 2 6.3 4.7 2.4 1.1 2.3-.2 5.1-2.3 7.5-2.4 1.6-.7-12.5 4-2.4 .1-2.4-1-6.3-4.3-4.7-1.9-31.4-6.5zM457.9 598.3l6.3-2.9-1.6 .3-6.3 3.3zM462.6 595.7l1.6 .1 1.6 .7 6.6 6.2 13.4 9.7 2.8 0 5.5-2.4 7-2.2 1.7-.7-12.2 3.8-3.2 0-12.9-8.7-6.7-5.7-2-1-1.6-.1zM502.8 607.1l6.7-3-1.7 .2-6.7 3.5zM507.8 604.3l2.8 .7 6.7 5.8 5.1 2.6 7.1 1.7 24.3 4.7 1.7-.9-31.5-6.4-5.1-2.4-6.7-5.4-2.7-.6z"/><path transform="translate(41.19 -23.11)" d="M396.5 589.6l24.4 4.8 7.5 1.8 4.7 2.2 5.9 4.8 2.4 1.1 2.3-.3 5.1-2.5 7.1-2.4 1.7-.7-7.1 2-5.1 2.2-2.4 .1-2.4-1-6.2-4.6-4.8-1.9-31.4-6.5zM457.6 598.4l5.1-2.8 1.9-.6-1.6 .2-2 .7-5.1 3.2zM463 595.2l1.6 .3 1.5 .9 6.3 6.2 13.4 10.1 2.8 .1 5.5-2.7 6.7-2.2 1.6-.8-6.7 2-5.5 2.2-2.8-.1-13.3-9.4-6.3-5.6-3.2-1.2zM502.4 607.1l7.1-3.4-1.7 .2-7 4zM507.8 603.9l2.8 .7 6.7 6.1 4.7 2.5 7.1 1.9 24.7 4.7 1.7-.9-31.5-6.4-5.1-2.5-6.7-5.7-2.7-.6z"/><path transform="translate(40.24 -22.58)" d="M396.5 589.7l24.4 4.7 7.5 1.8 4.7 2.2 5.9 5.1 2.4 1.2 2.3-.4 5.1-2.7 6.7-2.4 1.7-.8-6.7 2.1-5.1 2.4-2.4 .2-2.4-1.1-5.9-4.6-4.7-2.1-7.4-1.8-24.4-4.8zM457.2 598.4l5.5-3.2 1.9-.6-1.6 .2-2 .7-5.5 3.7zM463 594.8l2.8 .9 6.6 6.9 6.3 4.5 5.1 4.8 2 1.2 2.8 0 5.5-2.9 6.7-2.4 1.6-.7-6.7 2-5.5 2.5-2.8 0-13.3-9.8-6.3-6-1.6-.9-1.6-.3zM502.4 607.1l5.5-3.3 2-.5-1.7 .1-1.9 .7-5.5 3.7zM508.2 603.4l2.4 .7 6.7 6.6 4.7 2.5 7.1 1.9 24.7 4.7 1.7-.9-24.4-4.7-7.5-1.9-4.7-2.4-6.7-6-2.3-.6z"/><path transform="translate(39.3 -22.05)" d="M396.5 589.7l24.8 4.8 7.5 1.9 4.3 2.1 5.9 5.4 2.4 1.2 1.9-.2 5.5-3.2 6.3-2.4 1.7-.8-6.3 2.1-5.1 2.6-2.4 .3-2.4-1.2-5.9-4.8-4.7-2.2-7.4-1.8-24.4-4.8zM456.8 598.5l5.9-3.6 1.9-.7-1.6 .1-2 .8-5.9 4.2zM463 594.3l1.2 .1 1.6 .8 6.6 7.3 6.3 4.7 5.1 5 2 1.4 2.8-.1 5.5-3.2 6.3-2.3 1.6-.8-6.3 2-5.5 2.7-2.8 0-13.3-10.2-6.3-6.3-1.6-1-1.6-.2zM502 607.2l5.9-3.7 2-.7-1.7 .1-1.9 .8-5.9 4.3zM508.2 602.9l2.4 .8 6.7 6.9 4.7 2.6 7.1 1.9 24.7 4.8 1.7-1-24.8-4.8-7.1-1.8-4.7-2.5-6.7-6.3-2.3-.7z"/><path transform="translate(38.35 -21.52)" d="M396.5 589.7l24.8 4.8 7.5 1.9 4.3 2.2 5.9 5.7 2.4 1.3 1.9-.3 5.5-3.6 6.3-2.4 1.7-.8-6.3 2.2-5.1 2.8-2.4 .4-2.4-1.2-5.9-5.2-4.7-2.2-7.4-1.8-24.4-4.8zM456.8 598.5l6.3-4.2 1.9-.6-1.6 0-2 .7-6.3 4.9zM463.4 593.7l2.7 1.4 5.9 6.9 6.7 5.3 5.1 5.3 2 1.4 1.2 .3 1.6-.4 5.5-3.5 5.9-2.3 1.6-.8-5.9 2-5.5 3-2.8 0-1.9-1.2-5.1-4.8-6.3-4.7-6.3-6.6-2.8-1.3zM501.6 607.3l6.3-4.2 2.3-.7-1.6 0-1.9 .6-6.7 5.1zM508.6 602.4l2.8 1.5 6.3 6.9 3.9 2.2 7.1 2 25.1 4.9 1.7-1-24.8-4.8-7.1-1.8-4.3-2.3-6.3-6.3-2.8-1.3z"/><path transform="translate(37.4 -20.98)" d="M396.5 589.6l24.8 4.8 7.5 2 4.3 2.2 5.9 6.1 2.4 1.4 1.9-.4 5.5-3.9 5.9-2.4 1.7-.8-5.9 2.2-5.5 3.3-2 .2-2.4-1.2-5.9-5.5-4.3-2.1-7.5-2-24.7-4.8zM456.4 598.6l6.7-4.8 1.9-.6-1.6 0-2 .7-6.7 5.5zM463.4 593.2l2.4 1.1 6.3 7.6 6.6 5.5 5.1 5.6 2 1.5 1.2 .2 1.6-.4 5.5-3.9 5.9-2.4 1.6-.8-5.9 2.2-5.5 3.3-2.8 .1-1.9-1.4-5.1-5.1-6.3-4.7-6.3-7.1-2.8-1.3zM501.6 607.2l6.3-4.5 2.4-.8-1.7-.1-1.9 .7-6.7 5.5zM508.6 601.8l1.2 .4 1.6 1.2 6.3 7.3 3.9 2.3 7.1 2 25.1 4.8 1.7-.9-24.8-4.8-7.5-2-3.9-2.2-6.3-6.6-2.7-1.4z"/><path transform="translate(36.45 -20.45)" d="M396.5 589.6l25.2 4.9 7.5 2.1 4.3 2.4 5.5 6.1 2 1.4 2-.1 2.7-2 1.6-1.4-2.7 1.6-2 .1-2-1.2-5.5-5.5-4.7-2.5-7.4-2-24.8-4.8zM447.3 603l2-1.5-1.6 1.2-2 1.7zM447.7 602.7l6.7-3.2 1.6-.8-6.7 2.8zM456 598.7l2.7-1.7 4.4-3.6 1.9-.7-1.6-.1-2 .9-4.3 4.2-2.7 1.8zM463.4 592.6l1.2 .3 1.6 1.2 5.9 7.7 7 6.1 5.9 6.6 1.6 .7 1.2-.1 3.1-2.2 1.7-1.4-3.2 1.9-1.2 .1-1.5-.7-6.3-6.4-6.7-5.3-5.9-7-1.6-1.2-1.2-.2zM492.6 611.5l1.9-1.4-1.6 1.2-2 1.6zM492.9 611.3l6.7-3.2 1.6-.8-6.7 2.8zM501.2 607.3l2.4-1.4 4.7-3.9 2-.7-1.7 0-1.9 .7-4.8 4.6-2.3 1.5zM508.6 601.3l1.2 .3 1.6 1.3 6.3 7.7 3.9 2.4 7.1 2 25.1 4.8 1.7-.9-25.2-4.9-7.1-1.9-3.9-2.2-6.3-7.1-2.7-1.5z"/><path transform="translate(35.51 -19.92)" d="M396.5 589.6l31.1 6.4 5.5 2.8 7.5 8.1 2 .1 2.7-1.9 1.6-1.5-2.7 1.6-2-.2-7.5-7.3-5.9-2.7-30.6-6.3zM446.9 603.6l3.2-2.4-1.6 1.1-3.2 2.8zM448.5 602.3l5.9-2.8 1.6-.8-5.9 2.5zM456 598.7l2.7-1.8 4.4-4 2.3-.7-1.6-.1-2.4 .8-4.3 4.6-2.7 2zM463.8 592.1l2.3 1.5 5.9 8.1 7.1 6.3 5.9 7.1 2.4 .7 3.1-2.2 1.7-1.5-3.2 1.8-2.3-.6-6.3-6.8-6.7-5.5-5.9-7.4-2.4-1.4zM492.2 612.1l3.1-2.3-1.6 1.1-3.2 2.7zM493.7 610.9l5.5-2.6 1.6-.8-5.5 2.3zM500.8 607.5l2.8-1.7 4.7-4.3 1.9-.7-1.6-.1-1.9 .8-4.8 4.9-2.7 1.9zM508.6 600.7l1.2 .3 1.6 1.4 6.3 8.1 3.9 2.5 7.1 2 25.1 4.8 1.7-.9-25.2-4.9-7.1-1.9-3.9-2.3-6.3-7.5-1.6-1.2-1.2-.3z"/><path transform="translate(34.56 -19.39)" d="M396.5 589.6l24.4 4.8 7.1 1.8 3.2 1.3 2.3 1.7 5.5 6.9 1.6 1.3 2 .2 2.3-1.7 1.6-1.6-2.3 1.4-2-.1-7.5-7.8-5.5-2.7-31-6.4zM446.5 604.3l4-3.2-1.7 1.1-3.9 3.7zM448.8 602.2l5.2-2.6 1.6-.8-5.1 2.3zM455.6 598.8l2.7-1.8 4.8-4.6 2.3-.8-1.6-.2-2.4 1-4.7 5.3-2.7 1.9zM463.8 591.4l2.4 1.7 5.8 8.5 7.1 6.5 5.9 7.5 1.2 .7 1.2 0 2.7-1.9 1.7-1.6-2.8 1.7-2.3-.7-5.9-6.8-7.1-6.1-5.9-7.8-2.4-1.5zM491.8 612.8l3.9-3.2-1.6 1.1-4 3.7zM494.1 610.7l5.1-2.5 1.6-.8-5.1 2.2zM500.8 607.4l2.8-1.8 4.7-4.6 2.3-.8-1.6-.1-2.3 .9-4.8 5.2-2.7 2zM509 600.1l2.4 1.7 5.9 8.2 3.9 2.8 7.1 2.1 25.5 4.9 1.7-.9-25.2-4.9-7.1-1.9-4.3-2.8-5.9-7.5-2.4-1.6z"/><path transform="translate(33.61 -18.86)" d="M396.5 589.6l24.4 4.8 7.5 1.9 2.8 1.3 2.3 1.7 5.5 7.3 1.6 1.5 2 .1 1.9-1.5 1.7-1.7-2 1.3-2-.2-1.6-1.3-5.5-6.6-2.3-1.6-3.2-1.4-7.4-1.8-24-4.7zM446.2 605l4.7-4.1-1.7 1.1-4.7 4.7zM449.2 602l4.4-2.2 1.6-.9-4.3 2zM455.2 598.9l3.1-2 4.8-5 2.3-.9-1.6-.2-2 .7-5.1 6-3.1 2.3zM463.8 590.8l2.4 1.7 5.5 8.5 7.4 7.2 5.9 8 1.2 .7 1.2 .1 2.3-1.8 1.7-1.6-2.4 1.4-2.3-.7-5.9-7.2-7.1-6.3-5.9-8.3-2.4-1.5zM491.4 613.6l4.7-4.1-1.6 1.1-4.8 4.6zM494.5 610.6l4.3-2.2 1.6-.8-4.3 1.9zM500.4 607.6l3.2-2.2 4.7-4.9 2.3-.9-1.6-.2-1.2 .2-1.1 .8-4.8 5.7-3.1 2.3zM509 599.4l2.4 1.8 5.9 8.7 3.9 2.9 7.1 2.1 25.5 4.9 1.7-.9-25.2-4.8-7.1-2-4.3-2.9-5.9-7.9-2.4-1.7z"/><path transform="translate(32.67 -18.33)" d="M396.5 589.7l24.4 4.7 7.5 1.9 2.7 1.3 2.4 1.9 5.5 7.7 1.6 1.5 2 .1 1.9-1.6 1.6-1.7-1.9 1.4-2-.2-1.6-1.4-5.5-6.9-2.3-1.8-2.8-1.2-7.4-1.9-24.4-4.8zM446.1 605.5l5.2-4.7-1.7 1-5.1 5.4zM449.6 601.8l4-2 1.6-.9-3.9 1.9zM455.2 598.9l3.1-2.2 5.2-5.7 1.9-.7-1.6-.2-2 .8-5.1 6.4-3.1 2.5zM463.8 590.1l2.3 1.8 5.6 8.9 7.4 7.6 5.9 8.4 2 .9 2.3-1.5 1.7-1.8-2.4 1.3-2.3-1.2-5.5-7.3-7.5-7-5.5-8.2-2.4-1.7zM491 614.4l5.5-5-1.6 1-5.6 5.8zM494.9 610.4l3.9-2 1.6-.9-3.9 1.9zM500.4 607.5l3.2-2.2 4.7-5.4 2.3-.9-1.6-.2-1.2 .1-1.1 .9-4.8 6.1-3.1 2.5zM509 598.8l2.4 1.9 5.9 9.1 3.9 3 7.1 2.1 25.5 4.9 1.7-.9-25.6-4.9-7.1-2.1-3.9-2.8-5.9-8.4-2.4-1.7z"/><path transform="translate(31.72 -17.8)" d="M396.5 589.7l24.8 4.8 7.5 2 2.7 1.4 2 1.7 6.7 9.5 2 .5 1.9-1.4 1.7-1.9-2 1.3-2-.5-6.7-8.6-2.3-1.8-2.8-1.3-7.4-1.9-24.4-4.8zM445.8 606.3l3.5-3.9 2.4-1.8-1.7 1-2.3 2.1-3.6 4.5zM450 601.6l3.2-1.7 1.6-.8-3.1 1.5zM454.8 599.1l3.5-2.6 5.2-6.1 1.9-.7-1.6-.3-2 .9-5.1 6.8-3.5 2.8zM463.8 589.4l2.4 1.9 5.5 9.4 7.4 7.8 5.9 8.9 2 .9 2.4-1.6 1.6-1.8-2.4 1.4-1.9-.9-5.9-8-7.5-7.4-5.5-8.6-2.4-1.7zM491 614.9l3.5-3.9 2.4-1.8-1.6 1-2.4 2-3.5 4.5zM495.3 610.2l3.1-1.6 1.6-.9-3.1 1.5zM500 607.7l3.6-2.6 4.7-5.8 1.2-.8 1.1-.2-1.6-.2-2 .7-5.5 7.3-3.1 2.5zM509 598.1l2.4 1.9 5.9 9.7 3.9 3 7.1 2.2 25.5 5 1.7-1-25.6-4.9-7.1-2.1-3.9-2.9-5.9-8.8-2.4-1.9z"/><path transform="translate(30.77 -17.27)" d="M396.5 589.7l24.8 4.8 7.5 2 2.7 1.4 2 1.8 6.7 10.1 2 .5 1.9-1.6 1.7-1.8-2 1.3-2-.5-6.7-9.1-1.9-1.7-2.8-1.3-7.4-2.1-24.8-4.8zM445.8 606.9l3.5-4.3 2.8-2.2-1.7 1-2.7 2.5-3.6 4.8zM450.4 601.4l2.4-1.3 1.6-.9-2.3 1.2zM454.4 599.2l3.6-2.4 5.5-7 1.9-.8-1.6-.3-2 .9-5.5 7.8-3.5 2.7zM463.8 588.7l1.2 .5 1.2 1.4 5.5 9.9 7.4 8.1 5.9 9.5 2 1 2-1.4 1.6-1.9-2.4 1.1-1.9-1.2-5.5-8.2-7.5-7.6-5.5-9.1-2.4-1.8zM490.6 615.8l3.9-4.6 2.8-2.2-1.7 1-2.7 2.5-3.9 5.2zM495.6 610l2.4-1.3 1.6-.8-2.3 1.1zM499.6 607.9l3.6-2.6 5.5-6.9 1.9-.7-1.6-.4-1.9 .9-5.6 7.7-3.5 2.8zM509 597.3l2.4 2.1 5.9 10.1 3.9 3.2 7.1 2.2 25.5 5 1.7-1-25.6-4.9-7.1-2.2-3.9-3-5.9-9.2-2.4-1.9z"/><path transform="translate(29.83 -16.73)" d="M396.5 589.6l25.2 4.9 7.5 2.2 2.7 1.6 2 2 6.3 10.2 1.6 .7 1.9-1.4 1.7-2-2 1.2-1.6-.7-6.3-9.2-1.9-1.8-2.8-1.6-7.5-2.1-25.1-4.9zM445.4 607.8l4.3-5.4 3.1-2.4-1.6 1-3.1 2.7-4.4 6.1zM451.2 601l1.2-.7 1.6-.9-1.2 .6zM454 599.4l3.6-2.4 5.5-7.4 1.1-1 1.2-.3-1.6-.4-1.2 .3-1.2 1.2-5.5 8.3-3.5 2.6zM463.8 587.9l1.2 .6 1.1 1.5 6.3 11.5 6.7 7.3 5.9 10 2 1 2-1.5 1.6-1.9-1.2 1-1.2 .2-1.9-1.3-5.5-8.7-7.5-7.9-5.5-9.5-1.2-1.4-1.2-.5zM490.6 616.4l4.3-5.4 2.8-2.1-1.7 .9-2.7 2.4-4.3 6.1zM496 609.8l1.6-.9 1.6-.9-1.5 .9zM499.2 608l4-2.9 5.5-7.4 1.9-.8-1.6-.3-2 .9-5.5 8.3-3.9 3.1zM509 596.6l1.2 .6 1.2 1.5 5.9 10.7 3.9 3.3 7.1 2.2 25.5 4.9 1.7-.9-25.6-4.9-7.1-2.2-3.9-3.1-5.9-9.8-2.4-2z"/><path transform="translate(28.88 -16.2)" d="M396.5 589.6l25.2 4.9 7.5 2.2 2.7 1.6 2 2.1 6.3 10.8 1.6 .7 1.9-1.4 1.7-2.1-2 1.3-1.6-.7-6.3-9.7-1.9-2-2.8-1.6-7.5-2.1-25.1-4.9zM445.4 608.4l5.1-6.6 5.5-3.6 1.9-1.8 5.6-7.9 1.1-.8 1.2-.1-1.6-.4-1.2 .1-1.2 1-6.3 9.7-7 5.4-4.8 7.1zM464.2 587.2l2.3 2.8 5.5 10.8 7.5 8.7 5.5 10 2 1.1 2-1.6 1.6-2-1.2 1-1.2 .3-1.9-1.4-5.2-8.6-7-7.6-5.9-10.6-2.4-2.5zM490.6 617l4.7-6.3 7.1-4.9 5.9-8.3 1.2-1.1 1.1-.2-1.6-.4-1.2 .3-1.1 1.2-5.9 9.2-7.1 5.4-4.7 7.1zM509 595.8l1.2 .7 1.2 1.6 5.9 11.1 1.9 2.2 2 1.3 7.1 2.2 25.5 4.9 1.7-.9-25.6-4.9-7.1-2.2-3.9-3.2-5.9-10.3-1.2-1.4-1.2-.7z"/><path transform="translate(27.93 -15.67)" d="M396.5 589.6l25.2 4.9 7.5 2.2 2.7 1.7 2 2.2 6.3 11.4 1.6 .7 1.9-1.6 1.7-2-2 1.4-1.6-.7-6.3-10.4-1.9-2-2.8-1.7-7.5-2.1-25.1-4.9zM445.4 609.1l4.7-6.8 7.1-5.2 6.3-9.3 1.1-.9 1.2 0-1.6-.5-1.2 .1-1.2 1-6.3 10.3-7 5.8-4.8 7.5zM464.2 586.4l2.3 2.9 5.6 11.4 7.4 9 5.1 10.1 2 1.6 2-1.2 1.6-2.1-2 1-1.9-1.5-5.1-9.1-7.1-8-5.9-11-2.4-2.6zM490.2 618.1l5.1-7.2 7.1-5.2 5.9-8.9 1.2-1.1 1.1-.3-1.6-.4-1.2 .3-1.1 1.3-5.9 9.8-7.1 5.7-5.1 8.1zM509 595l1.2 .7 1.2 1.7 5.9 11.7 1.9 2.2 2 1.4 7.1 2.2 25.5 4.9 1.7-.9-25.6-4.9-7.1-2.2-1.9-1.3-2-2.1-5.9-10.8-1.2-1.5-1.2-.7z"/><path transform="translate(26.99 -15.14)" d="M396.5 589.6l25.6 5 7.5 2.3 2.3 1.6 2 2.3 6.3 12 1.6 .7 1.5-1.1 1.7-2.2-1.6 1-1.6-.7-6.3-10.9-1.9-2.2-2.4-1.5-7.5-2.2-25.5-5zM445 610.2l5.1-7.7 7.1-5.5 6.2-9.9 1.2-.9 1.2-.1-1.6-.5-1.2 .1-1.2 1.1-6.3 10.9-7.1 6-5.1 8.7zM464.2 585.6l2.3 3 5.5 11.9 7.5 9.4 5.1 10.6 2 1.7 2-1.3 1.6-2.1-2 1.1-1.9-1.6-5.2-9.6-7.4-8.8-5.5-11-2.4-2.8zM490.2 618.8l5.1-7.7 7.1-5.5 5.9-9.4 1.2-1.2 1.1-.3-1.6-.5-1.2 .4-1.1 1.3-5.9 10.3-7.1 6.1-5.1 8.6zM509 594.2l1.2 .8 1.2 1.7 5.5 11.7 1.9 2.5 2 1.5 7.1 2.4 25.9 5 1.7-.9-25.6-4.9-7.1-2.2-1.9-1.4-2-2.1-5.9-11.3-1.2-1.6-1.2-.7z"/><path transform="translate(26.04 -14.61)" d="M396.5 589.6l25.6 5 7.5 2.3 2.3 1.6 2 2.4 6.3 12.7 1.6 .8 1.5-1.3 1.7-2.2-1.6 1.1-1.6-.7-6.3-11.6-1.9-2.2-2.4-1.5-7.5-2.3-25.5-5zM445 610.9l5.1-8.2 7.1-5.8 6.3-10.5 1.1-1 1.2-.1-1.6-.5-1.2 .1-1.2 1.2-6.3 11.5-5.5 4.5-1.5 1.8-5.2 9.2zM464.2 584.8l2.3 3.1 5.5 12.5 7.5 9.7 5.5 11.8 1.6 1.2 2-1.5 1.6-2.1-2 1.2-1.9-1.6-5.2-10.2-7.4-9.2-5.5-11.5-2.4-2.9zM490.2 619.5l5.1-8.3 7.1-5.8 5.9-9.9 1.2-1.3 1.1-.3-1.6-.5-1.2 .4-1.1 1.4-5.9 10.9-7.1 6.4-5.1 9.1zM509 593.4l1.2 .8 1.2 1.8 5.5 12.2 1.9 2.6 2 1.6 7.1 2.4 25.9 5 1.7-.9-26-5-7.1-2.4-1.9-1.5-2-2.4-5.5-11.3-1.2-1.7-1.2-.7z"/><path transform="translate(25.09 -14.08)" d="M396.5 589.7l25.6 4.9 7.5 2.3 2.3 1.7 2 2.5 6.3 13.3 1.6 .9 1.5-1.4 1.7-2.2-1.6 1.2-1.6-.8-6.3-12.2-1.9-2.3-2.4-1.6-7.5-2.3-25.5-5zM445 611.7l5.1-8.8 7.1-6.2 6.3-11 1.1-1.1 1.2-.1-1.6-.5-1.2 .1-1.2 1.2-6.3 12.1-5.1 4.4-1.9 2.3-5.2 9.8zM464.2 584l1.2 1.1 1.1 2.1 5.6 13 7.4 10.1 5.5 12.4 1.6 1.2 .8-.2 1.2-1.3 1.6-2.2-2 1.3-1.9-1.7-5.1-10.7-7.5-9.5-5.5-12.1-2.4-3zM490.2 620.2l5.1-8.8 7.1-6.1 5.9-10.5 1.2-1.4 1.1-.3-1.6-.6-1.2 .5-1.1 1.5-5.9 11.4-7.1 6.7-5.1 9.8zM509 592.5l1.2 .9 1.2 1.8 5.5 12.8 1.9 2.7 2 1.7 6.7 2.3 26.3 5.1 1.7-.9-26-5-7.1-2.4-1.9-1.5-2-2.6-5.5-11.8-1.2-1.8-1.2-.7z"/><path transform="translate(24.15 -13.55)" d="M396.5 589.7l25.6 4.9 7.5 2.3 2.3 1.8 2 2.6 6.3 14 1.6 .8 1.5-1.4 1.7-2.3-1.6 1.3-1.6-.8-6.3-12.8-1.9-2.5-2.4-1.6-7.5-2.3-25.5-5zM445 612.4l5.1-9.3 1.6-1.9 5.5-4.6 6.2-11.6 1.2-1.2 1.2-.1-1.6-.6-1.2 .2-1.2 1.3-6.3 12.7-5.1 4.6-2 2.4-5.1 10.4zM464.2 583.1l1.2 1.2 1.1 2.2 5.5 13.6 7.5 10.4 5.1 12.4 1.2 1.6 .8 .3 1.6-1 1.6-2.3-1.6 .9-1.9-1.8-5.2-11.3-7.4-9.9-5.5-12.6-1.2-2-1.2-1.1zM489.8 621.5l5.5-9.9 7.1-6.5 5.9-11 1.2-1.5 1.1-.4-1.6-.5-1.2 .4-1.1 1.6-5.9 12.1-7.1 7-5.5 11zM509 591.7l1.2 .8 1.2 2 5.5 13.3 1.9 2.9 2 1.6 6.7 2.4 26.3 5.2 1.7-1-26-5-7.1-2.4-1.9-1.6-2-2.7-5.5-12.3-1.2-1.9-1.2-.8z"/><path transform="translate(23.2 -13.02)" d="M396.5 589.7l26 5 7.5 2.5 2.3 2 2 3 5.9 14 1.2 .9 1.5-1 1.7-2.4-1.6 .9-1.2-.8-6.3-13.6-1.9-2.5-2.4-1.7-7.5-2.3-25.5-5zM444.6 613.7l5.5-10.4 1.9-2.4 5.2-4.4 6.3-12.3 1.1-1.2 1.2-.2-1.6-.5-1.2 .1-1.2 1.4-6.3 13.4-5.1 4.8-1.9 2.5-5.6 11.6zM464.2 582.3l1.9 2.6 5.9 15 5.6 7.5 1.9 3.4 5.1 12.9 1.2 1.6 .8 .4 1.6-1.1 1.6-2.3-1.6 1-1.9-1.9-5.2-11.9-7.4-10.2-5.5-13.2-1.2-2.1-1.2-1.2zM489.8 622.3l5.5-10.5 7.1-6.8 5.9-11.7 1.2-1.5 1.1-.4-1.6-.5-1.2 .4-1.1 1.7-5.9 12.7-5.6 5.2-1.5 2.1-5.5 11.6zM509 590.9l1.2 .8 1.2 2.1 5.5 13.9 1.9 2.9 2 1.7 2.8 1.3 3.9 1.1 26.3 5.2 1.7-1-26.4-5.1-6.7-2.4-1.9-1.6-2-2.8-5.5-12.9-1.2-1.9-1.2-.8z"/><path transform="translate(22.25 -12.48)" d="M396.5 589.6l26 5.1 7.5 2.5 2.3 2 2 3.2 5.9 14.6 1.2 1 1.5-1.1 1.7-2.3-1.6 .9-1.2-.9-6.3-14.2-1.9-2.6-2-1.6-7.5-2.4-25.9-5.1zM444.6 614.6l5.5-11.1 2-2.5 5.1-4.7 6.3-12.8 1.1-1.4 1.2-.1-1.6-.6-1.2 .2-1.2 1.5-6.3 13.9-5.1 5-1.9 2.7-5.6 12.2zM464.2 581.4l2 2.8 5.9 15.5 5.5 7.7 1.9 3.6 5.5 14.2 1.6 1.4 1.6-1.2 1.6-2.3-1.6 1-.8-.3-1.1-1.6-5.1-12.5-2-3.3-5.5-7.3-5.9-14.5-2-2.6zM489.8 623.1l5.5-11.1 1.6-2 5.5-5.2 5.9-12.2 1.2-1.6 1.1-.5-1.6-.5-1.2 .5-1.1 1.7-5.9 13.3-5.5 5.5-1.6 2.2-5.5 12.2zM509 590l1.2 .9 1.2 2.1 5.5 14.5 1.9 3 2 1.8 2.8 1.3 3.9 1.1 26.3 5.1 1.7-.9-26.4-5.1-6.7-2.4-1.9-1.7-2-2.8-5.5-13.5-1.2-2-1.2-.9z"/><path transform="translate(21.3 -11.95)" d="M396.5 589.6l26.4 5.2 7.1 2.4 2.3 2.1 2 3.3 5.9 15.3 1.2 1 1.6-1.1 1.6-2.4-1.6 1-1.2-.9-5.9-14.2-1.9-3-2.4-2-7.5-2.5-25.9-5.1zM444.6 615.4l5.5-11.7 2-2.6 5.1-4.9 6.3-13.5 1.1-1.4 1.2-.2-1.6-.5-1.2 .2-1.2 1.5-6.3 14.6-5.1 5.2-1.9 2.8-5.5 12.9zM464.2 580.6l2 2.8 5.9 16.2 7 10.7 5.9 15.8 1.6 1.4 1.6-1.2 1.6-2.4-1.6 1.1-1.5-1.3-5.5-13.8-2-3.4-5.5-7.6-5.9-15.1-2-2.7zM489.8 623.9l5.5-11.8 1.6-2.1 5.5-5.3 5.9-12.8 1.2-1.7 1.1-.5-1.6-.6-1.2 .6-1.1 1.8-5.9 13.9-5.5 5.7-1.6 2.3-5.5 12.9zM509 589.1l1.2 1 1.2 2.2 5.5 15 2 3.1 1.9 1.8 2.8 1.4 3.9 1.1 26.3 5.1 1.7-.9-26.4-5.1-3.9-1.1-2.8-1.3-1.9-1.8-2-2.9-5.5-14.1-1.2-2-1.2-.9z"/><path transform="translate(20.36 -11.42)" d="M396.5 589.6l26.4 5.2 7.1 2.5 2.3 2.1 2 3.4 5.9 16 1.2 1 1.5-1.2 1.7-2.4-1.6 1.1-1.2-.9-5.9-14.9-1.9-3.1-2.4-2.1-7.1-2.4-26.3-5.2zM444.6 616.2l5.5-12.3 1.9-2.8 5.2-5 6.3-14.2 1.1-1.5 1.2-.1-1.6-.6-1.2 .2-1.2 1.6-6.3 15.2-5.1 5.5-1.9 2.9-5.6 13.5zM464.2 579.7l1.9 3 5.9 16.7 7.1 11.1 5.5 15.7 1.6 2.2 .8 0 .8-.7 1.6-2.4-.8 .6-.8 0-1.5-2.1-5.2-13.7-1.9-3.6-5.5-7.7-5.9-15.7-2-2.8zM489.4 625.3l5.9-13 1.6-2.2 5.5-5.5 5.9-13.5 1.2-1.8 1.1-.5-1.6-.5-1.2 .6-1.1 1.9-5.9 14.4-5.6 6-1.5 2.4-5.9 14.1zM509 588.3l1.2 .9 1.2 2.3 5.5 15.6 1.9 3.3 2 1.8 2.8 1.4 3.9 1.1 26.3 5.1 1.7-.9-26.4-5.1-3.9-1.1-2.8-1.4-1.9-1.7-2-3.1-5.5-14.6-1.2-2.2-1.2-.9z"/><path transform="translate(19.41 -10.89)" d="M396.5 589.6l26.4 5.2 4.3 1.2 2.8 1.3 2.3 2.2 2 3.5 5.9 16.7 1.2 1 1.5-1.2 1.7-2.4-1.6 1.1-1.2-1-5.9-15.5-1.9-3.3-2.4-2.1-7.1-2.4-26.3-5.2zM444.6 617.1l5.5-13 1.9-2.9 5.2-5.3 6.3-14.7 1.1-1.6 1.2-.2-1.6-.5-1.2 .2-1.2 1.7-4.3 11.7-2 4.1-5.1 5.7-1.9 3-5.6 14.2zM464.2 578.9l2 3 5.8 17.4 7.1 11.4 5.5 16.3 1.6 2.3 .8 0 .8-.7 1.6-2.4-.8 .6-.8 0-1.5-2.2-5.1-14.3-2-3.7-5.5-8-5.9-16.3-2-2.9zM489.4 626.2l5.9-13.7 1.6-2.3 5.5-5.8 5.9-14 1.2-1.9 1.1-.5-1.6-.6-1.2 .6-1.1 2-5.9 15.1-5.5 6.2-1.6 2.5-5.9 14.8zM509 587.4l1.2 1 1.2 2.4 5.5 16.1 1.9 3.4 2 1.9 2.8 1.4 3.9 1.1 26.3 5.1 1.7-.9-26.4-5.1-3.9-1.1-2.8-1.4-1.9-1.8-2-3.2-5.5-15.1-1.2-2.3-1.2-.9z"/><path transform="translate(18.46 -10.36)" d="M396.5 589.6l26.4 5.2 4.3 1.2 2.8 1.3 2.3 2.3 2 3.6 5.5 16.6 1.6 1.8 1.2-.7 1.6-2.4-1.2 .7-1.6-1.7-5.5-15.6-1.9-3.4-2.4-2.2-7.1-2.4-26.3-5.2zM444.2 618.5l5.9-14.2 2-3 5.1-5.5 6.3-15.4 1.1-1.6 1.2-.2-1.6-.5-1.2 .2-1.2 1.7-4.3 12.2-2 4.3-6.6 8.3-6.3 16.1zM464.2 578.1l2 3.1 5.9 17.9 7 11.8 5.9 17.8 1.6 1.6 1.2-.8 1.6-2.5-.8 .7-.8 0-1.5-2.2-5.5-15.9-7.1-11.1-5.9-16.9-2-3zM489.4 627l5.9-14.3 1.6-2.4 5.5-6 5.9-14.6 1.2-2 1.1-.6-1.6-.5-1.2 .6-1.1 2.1-5.9 15.6-1.6 2.3-3.9 4.2-1.6 2.6-5.9 15.5zM509 586.6l1.2 1 1.2 2.5 5.5 16.7 1.9 3.4 2 2 2.8 1.4 3.9 1.1 26.3 5.1 1.7-.9-26.4-5.1-3.9-1.1-2.8-1.4-1.9-1.9-2-3.2-5.5-15.8-1.2-2.3-1.2-1z"/><path transform="translate(17.52 -9.83)" d="M396.5 589.7l26.4 5.1 4.3 1.2 2.8 1.3 2.3 2.4 2 3.7 5.5 17.3 1.6 1.9 1.2-.8 1.6-2.4-1.2 .7-1.6-1.8-5.5-16.1-1.9-3.6-2.4-2.2-2.8-1.3-4.3-1.2-26.3-5.2zM444.2 619.4l6.3-15.7 6.7-8.1 1.9-4.1 4.4-11.8 1.1-1.7 1.2-.3-1.6-.5-1.2 .3-1.2 1.8-4.3 12.6-2 4.4-5.1 6.1-1.6 2.5-6.2 16.9zM464.2 577.2l1.9 3.3 5.9 18.5 7.1 12 5.9 18.5 1.6 1.7 1.2-.9 1.6-2.4-.8 .7-.8 0-1.5-2.3-5.5-16.5-7.1-11.5-5.9-17.5-2-3.1zM489.4 627.9l5.9-15 1.6-2.5 5.5-6.3 5.9-15.2 1.2-2 1.1-.6-1.6-.5-1.2 .6-1.1 2.2-5.9 16.2-1.6 2.4-4 4.2-1.5 2.8-5.9 16.1zM509 585.8l1.2 1 1.2 2.6 5.5 17.2 1.9 3.5 2 2 2.8 1.5 3.9 1.1 26.3 5.1 1.7-.9-26.4-5.1-3.9-1.1-2.8-1.4-1.9-2-2-3.3-5.5-16.3-1.2-2.4-1.2-1z"/><path transform="translate(16.57 -9.3)" d="M396.5 589.7l26.4 5.1 4.3 1.2 2.8 1.3 2.3 2.4 2 3.9 5.5 17.9 1.6 1.9 1.2-.7 1.6-2.4-1.2 .7-1.6-1.8-5.5-16.8-1.9-3.7-2.4-2.3-2.8-1.3-4.3-1.2-26.3-5.2zM444.2 620.3l6.3-16.4 6.7-8.4 1.9-4.3 4.4-12.3 1.1-1.8 1.2-.2-1.6-.4-1.2 .2-1.2 1.9-4.3 13-2 4.6-5.1 6.3-1.6 2.6-6.2 17.6zM464.2 576.5l2 3.3 5.8 19 7.1 12.4 5.9 19.2 1.6 1.7 1.2-.9 1.6-2.4-1.2 .8-1.5-1.6-5.9-18-7.1-11.8-5.9-18.1-2-3.2zM489.4 628.8l5.9-15.7 1.6-2.6 3.9-4.2 1.6-2.3 5.9-15.8 1.2-2.1 1.1-.6-1.6-.5-1.2 .7-1.1 2.2-4 12.1-1.9 4.7-1.6 2.4-3.9 4.4-1.6 2.9-5.9 16.8zM509 585l1.2 1.1 1.2 2.6 5.5 17.7 1.9 3.7 2 2 2.8 1.5 3.9 1.1 26.3 5.2 1.7-1-26.4-5.1-3.9-1.1-2.8-1.5-1.9-1.9-2-3.5-5.5-16.8-1.2-2.5-1.2-1z"/><path transform="translate(15.62 -8.77)" d="M396.5 589.7l26.4 5.1 4.3 1.2 2.8 1.4 2.3 2.4 2 4 5.5 18.5 1.6 2 1.2-.8 1.6-2.4-1.2 .8-1.6-1.9-5.5-17.4-1.9-3.8-2.4-2.4-2.7-1.3-4.4-1.2-26.3-5.2zM444.2 621.1l5.9-16.2 2-3.4 5.1-6.1 1.9-4.5 4-11.8 1.1-2.3 1.2-.8-1.6-.4-1.2 .8-1.2 2.5-3.9 12.5-2 4.7-5.1 6.4-1.9 3.6-5.9 17.4zM463.8 575.6l1.2 .9 1.2 2.6 5.9 19.6 7 12.7 5.9 19.8 1.6 1.8 1.2-1 1.6-2.4-1.2 .9-1.5-1.6-5.9-18.7-7.1-12.2-5.9-18.6-1.2-2.5-1.2-.9zM489.4 629.6l5.9-16.3 1.6-2.7 3.9-4.4 1.6-2.3 5.9-16.4 1.2-2.2 1.1-.6-1.6-.5-1.2 .7-1.1 2.4-4 12.4-1.9 4.8-1.6 2.6-3.9 4.5-1.6 2.9-5.9 17.5zM509 584.2l1.2 1.1 1.2 2.7 5.5 18.3 1.9 3.7 2 2.1 2.8 1.5 3.9 1.1 26.3 5.2 1.7-1-26.4-5.1-3.9-1.1-2.8-1.5-1.9-2-2-3.6-5.5-17.3-1.2-2.6-1.2-1z"/><path transform="translate(14.68 -8.23)" d="M396.5 589.6l26.8 5.3 4.3 1.3 2.8 1.5 1.9 2.2 2 4.1 5.5 19.1 1.6 2.1 1.2-.9 1.6-2.3-1.2 .8-1.6-2-5.5-18-1.9-4-2.4-2.4-2.8-1.3-4.3-1.2-26.3-5.2zM444.2 622l5.9-16.9 1.9-3.5 5.2-6.4 1.9-4.6 4-12.2 1.1-2.4 1.2-.8-1.6-.4-1.2 .9-1.2 2.5-3.9 12.9-2 4.8-5.1 6.7-1.9 3.7-5.9 18zM463.8 574.8l1.2 1 1.1 2.6 5.9 20.2 7.1 13 5.9 20.4 1.6 1.8 1.2-1 1.6-2.3-1.2 .9-1.5-1.7-5.9-19.3-7.1-12.5-5.9-19.2-1.2-2.6-1.2-.9zM489.4 630.5l5.9-17 1.6-2.9 3.9-4.4 1.6-2.5 1.9-4.7 4-12.2 1.2-2.3 1.1-.6-1.6-.4-1.2 .7-1.1 2.4-4 12.8-1.9 5-1.6 2.6-4 4.7-1.5 3-5.9 18.1zM509 583.5l1.2 1.1 1.2 2.7 5.5 18.8 1.9 3.8 2 2.2 2.8 1.5 3.9 1.1 26.3 5.1 1.7-.9-26.4-5.1-3.9-1.2-2.8-1.4-1.9-2.1-2-3.6-5.5-17.9-1.2-2.7-1.2-1z"/><path transform="translate(13.73 -7.7)" d="M396.5 589.6l26.8 5.3 4.3 1.3 2.8 1.5 1.9 2.3 2 4.2 5.5 19.7 1.6 2.1 1.2-.9 1.6-2.3-1.2 .8-1.6-2-5.5-18.6-1.9-4.1-2.4-2.4-2.8-1.4-4.3-1.2-26.3-5.2zM444.2 622.8l5.9-17.5 1.9-3.7 5.2-6.5 1.9-4.7 4-12.6 1.1-2.5 1.2-.9-1.6-.3-1.2 .9-1.2 2.6-3.9 13.2-2 5-5.1 6.9-1.9 3.8-5.9 18.6zM463.8 574.1l1.2 1 1.1 2.7 5.9 20.6 1.6 3.4 4 6.3 1.5 3.6 5.9 21 1.2 1.8 1.2-.4 1.6-2.3-1.2 .4-1.1-1.7-5.9-20-7.1-12.7-5.9-19.8-1.2-2.6-1.2-1zM489 631.8l1.6-3.2 4.7-14.9 1.6-3 3.9-4.6 1.6-2.5 2-4.9 3.9-12.5 1.2-2.4 1.1-.7-1.6-.4-1.2 .8-1.1 2.5-4 13.2-1.9 5.1-1.6 2.6-3.6 4.3-1.9 3.7-4.7 15.8-1.6 3.4zM509 582.7l1.2 1.2 1.2 2.8 5.5 19.3 1.9 3.9 2 2.1 2.8 1.6 3.9 1.1 26.3 5.1 1.7-.9-26.4-5.1-3.9-1.2-2.8-1.4-1.9-2.1-2-3.8-5.5-18.4-1.2-2.7-1.2-1.1z"/><path transform="translate(12.78 -7.17)" d="M396.5 589.6l26.8 5.3 4.3 1.3 2.8 1.5 1.9 2.3 2 4.4 5.5 20.2 1.2 2 1.2-.2 1.6-2.3-1.2 .2-1.2-1.9-5.5-19.3-1.9-4.1-2-2.2-2.8-1.6-4.3-1.2-26.7-5.3zM443.8 624.1l1.6-3.2 4.7-15.5 2-3.7 5.1-6.7 1.9-4.9 4-13 1.1-2.5 1.2-.9-1.6-.3-1.2 1-1.2 2.6-5.5 17.9-1.9 3.5-3.6 4.3-1.9 3.9-4.8 16.4-1.5 3.4zM463.8 573.4l1.2 1 1.2 2.8 5.9 21.1 1.5 3.5 4 6.4 1.5 3.7 5.9 21.6 1.2 1.8 1.2-.4 1.6-2.2-1.2 .3-1.1-1.7-5.9-20.6-1.6-3.5-5.5-9.6-5.9-20.3-1.2-2.6-1.2-1zM489 632.7l1.6-3.4 4.7-15.5 1.6-3 3.9-4.7 1.6-2.6 2-5 3.9-13 1.2-2.4 1.1-.8-1.6-.2-1.2 .7-1.1 2.6-4 13.5-1.9 5.3-1.6 2.7-3.6 4.3-1.9 3.8-4.7 16.3-1.6 3.6zM509 582.1l1.2 1.1 1.2 2.9 5.5 19.7 1.9 4 2 2.2 2.4 1.4 3.9 1.2 26.7 5.2 1.7-.9-26.4-5.1-3.9-1.2-2.8-1.5-1.9-2.1-2-3.8-5.5-18.9-1.2-2.8-1.2-1.2z"/><path transform="translate(11.84 -6.64)" d="M396.5 589.6l26.8 5.3 4.3 1.3 2.8 1.6 1.9 2.3 2 4.4 5.5 20.8 1.2 2 1.2-.2 1.6-2.2-1.2 .2-1.2-1.9-5.5-19.9-1.9-4.2-2-2.3-2.8-1.5-4.3-1.3-26.7-5.3zM443.8 624.9l1.6-3.3 4.7-16 1.9-3.8 3.6-4.3 2-3.4 5.5-17.6 1.1-2.6 1.2-.9-1.6-.2-1.2 .9-1.2 2.8-5.5 18.2-1.9 3.6-3.6 4.5-2 4-4.7 16.8-1.5 3.5zM463.8 572.8l1.2 1 1.1 2.8 5.9 21.6 1.6 3.5 4 6.5 1.5 3.8 5.9 22.2 1.2 1.8 1.2-.4 1.6-2.2-1.2 .4-1.1-1.8-5.9-21.2-1.6-3.6-4-6.3-1.5-3.4-5.9-20.8-1.2-2.7-1.2-1zM489 633.4l1.6-3.5 4.7-15.9 2-3.7 3.5-4.3 1.6-2.7 1.9-5.1 4-13.3 1.2-2.5 1.1-.8-1.6-.2-1.2 .8-1.1 2.6-4 13.9-1.9 5.4-1.6 2.8-3.6 4.4-1.9 3.9-4.7 16.7-1.6 3.7zM509 581.4l1.2 1.2 1.2 3 5.5 20.1 1.9 4.1 2 2.2 2.4 1.4 3.9 1.2 26.7 5.2 1.7-.9-26.4-5.1-3.9-1.2-2.8-1.5-1.9-2.2-2-3.9-5.5-19.4-1.2-2.8-1.2-1.2z"/><path transform="translate(10.89 -6.11)" d="M396.5 589.6l27.2 5.4 4.3 1.3 2.4 1.5 1.9 2.4 2 4.5 5.5 21.2 1.2 2.1 1.2-.2 1.6-2.1-1.2 .2-1.2-2-5.5-20.4-1.9-4.4-2-2.3-2.8-1.5-4.3-1.3-26.7-5.3zM443.8 625.7l1.6-3.5 4.7-16.4 1.9-4 3.6-4.3 2-3.6 5.5-17.9 1.1-2.7 1.2-1-1.6-.2-1.2 1.1-1.2 2.8-3.9 14.2-2 5.3-1.5 2.8-3.6 4.5-1.6 3.2-5.1 18.2-1.5 3.6zM463.8 572.1l1.2 1.1 1.1 2.9 5.9 22 1.6 3.6 4 6.6 1.5 3.9 5.9 22.6 1.2 1.9 1.2-.4 1.6-2.1-1.2 .4-1.1-1.8-5.9-21.8-1.6-3.7-4-6.5-1.5-3.4-5.9-21.3-1.2-2.8-1.2-1zM489 634.2l1.6-3.6 4.7-16.4 2-3.9 3.5-4.3 1.6-2.8 2-5.2 3.9-13.7 1.2-2.5 1.1-.8-1.6-.2-1.2 .8-1.1 2.7-4 14.2-1.9 5.5-1.6 2.8-3.6 4.5-1.9 4-4.7 17.2-1.6 3.8zM509 580.8l1.2 1.2 1.2 3 5.5 20.6 1.9 4.1 2 2.3 2.4 1.4 3.9 1.2 26.7 5.2 1.7-.9-26.8-5.2-3.9-1.2-2.4-1.4-1.9-2.2-2-4-5.5-19.8-1.2-3-1.2-1.1z"/><path transform="translate(9.94 -5.58)" d="M396.5 589.7l27.2 5.3 4.3 1.3 2.4 1.5 1.9 2.4 2 4.6 5.5 21.7 1.2 2.1 1.2-.2 1.6-2-1.2 .2-1.2-2-5.5-20.9-1.9-4.5-2-2.4-2.8-1.5-4.3-1.3-26.7-5.3zM443.8 626.4l1.6-3.5 4.7-17 2-4 3.5-4.5 2-3.6 5.5-18.4 1.1-2.7 1.2-1-1.6-.1-1.2 1-1.2 2.9-5.5 19-1.9 3.8-3.6 4.6-1.6 3.2-5.1 18.6-1.5 3.7zM463.8 571.6l1.2 1 1.2 3 5.9 22.4 1.5 3.6 4 6.8 1.5 3.9 5.9 23.1 1.2 2 1.2-.5 1.6-2-1.2 .4-1.1-1.9-5.9-22.3-1.6-3.7-3.9-6.6-1.6-3.5-5.9-21.7-1.2-2.9-1.2-1zM489 634.9l1.6-3.7 4.7-16.9 2-3.9 3.5-4.5 1.6-2.8 2-5.4 3.9-13.9 1.2-2.7 1.1-.8-1.6-.1-1.2 .9-1.1 2.7-4 14.5-1.9 5.6-1.6 2.9-3.6 4.6-1.9 4.1-4.7 17.5-1.6 3.9zM509 580.2l1.2 1.3 1.2 3.1 5.5 20.8 1.9 4.3 2 2.3 2.4 1.4 3.9 1.2 26.7 5.2 1.7-.9-26.8-5.2-3.9-1.2-2.4-1.4-1.9-2.3-2-4.1-5.5-20.2-1.2-3-1.2-1.2z"/><path transform="translate(9 -5.05)" d="M396.5 589.7l27.2 5.3 4.3 1.4 2.4 1.4 1.9 2.5 2 4.7 5.5 22.1 1.2 2.1 1.2-.2 1.6-1.9-1.2 .2-1.2-2.1-5.5-21.4-1.9-4.5-2-2.4-2.4-1.5-4.3-1.3-27.1-5.4zM443.8 627.1l1.6-3.7 5.1-18.3 1.5-3.2 3.6-4.5 1.9-3.7 5.6-18.8 1.1-2.8 1.2-1-1.6 0-1.2 1-1.2 2.9-5.5 19.4-1.9 3.8-3.6 4.7-1.6 3.3-5.1 19-1.5 3.8zM463.8 571.1l1.2 1 1.1 3.1 5.9 22.7 1.6 3.7 3.9 6.8 1.6 4 5.9 23.6 1.2 2 1.2-.5 1.6-1.9-1.2 .4-1.2-1.9-5.8-22.8-1.6-3.9-4-6.7-1.5-3.5-5.9-22.2-1.2-2.9-1.2-1zM489 635.6l1.6-3.9 4.7-17.2 2-4.1 3.5-4.5 1.6-2.9 1.9-5.5 4-14.2 1.2-2.7 1.1-.9-1.6 0-1.2 .9-1.1 2.8-4 14.7-1.9 5.7-1.6 2.9-3.6 4.7-1.9 4.2-4.7 17.9-1.6 4zM509 579.7l1.2 1.3 1.2 3.1 5.5 21.2 1.9 4.3 2 2.3 2.4 1.5 3.9 1.2 26.7 5.3 1.7-1-26.8-5.2-3.9-1.2-2.4-1.4-1.9-2.3-2-4.2-5.5-20.6-1.2-3.1-1.2-1.2z"/><path transform="translate(8.05 -4.52)" d="M396.5 589.7l27.2 5.3 4.3 1.4 2.4 1.4 1.9 2.5 2 4.8 5.5 22.5 1.2 2.2 1.2-.3 1.6-1.8-1.2 .2-1.2-2.1-5.5-21.8-1.9-4.7-2-2.4-2.4-1.5-4.3-1.3-27.1-5.4zM443.8 627.7l1.6-3.7 5.1-18.8 1.5-3.2 3.6-4.7 2-3.7 5.5-19.2 1.1-2.8 1.2-1.1-1.6 .1-1.2 1.1-1.2 2.9-5.5 19.7-1.9 3.9-3.6 4.8-1.6 3.3-5.1 19.4-1.5 3.8zM463.8 570.6l1.2 1.1 1.1 3 5.9 23.1 1.6 3.7 4 7 1.5 4 5.9 24 1.2 2 1.2-.5 1.6-1.8-1.2 .4-1.1-1.9-5.9-23.3-1.6-3.9-4-6.8-1.5-3.6-5.9-22.5-1.2-3-1.2-1.1zM489 636.2l1.6-3.9 4.7-17.7 2-4.1 3.5-4.7 1.6-2.9 1.9-5.6 4-14.5 1.2-2.8 1.1-.8-1.6 .1-1.2 .9-1.1 2.8-4 14.9-1.9 5.8-1.6 3-3.6 4.8-1.9 4.2-4.7 18.3-1.6 4zM509 579.3l1.2 1.2 1.2 3.2 5.5 21.5 1.9 4.4 2 2.3 2.4 1.5 3.9 1.2 26.7 5.3 1.7-1-26.8-5.2-3.9-1.2-2.4-1.5-1.9-2.3-2-4.2-5.5-21-1.2-3.1-1.2-1.2z"/><path transform="translate(7.1 -3.98)" d="M396.5 589.6l27.2 5.4 4.3 1.4 2.4 1.4 1.9 2.6 2 4.8 5.5 22.8 1.2 2.2 1.2-.2 1.6-1.8-1.2 .3-1.2-2.2-5.5-22.2-1.9-4.7-2-2.5-2.4-1.5-4.3-1.3-27.1-5.4zM443.8 628.2l1.6-3.7 5.1-19.2 1.6-3.3 3.5-4.7 2-3.8 5.5-19.5 1.1-2.9 1.2-1.1-1.6 .2-1.2 1.1-1.2 3-5.5 20-1.9 3.9-3.6 4.8-1.6 3.4-5.1 19.7-1.5 3.9zM463.8 570.2l1.2 1.1 1.2 3.1 5.9 23.3 1.5 3.8 4 7 1.5 4.1 5.9 24.3 1.2 2.1 .8-.1 1.6-1.7-.8 0-1.1-2-5.9-23.7-1.6-4-3.9-6.9-1.6-3.6-5.9-22.9-1.2-3-1.2-1.1zM488.6 637.2l2-4.5 4.7-18 2-4.2 3.5-4.7 1.6-3 2-5.7 3.9-14.8 1.2-2.8 1.1-.8-1.6 .1-1.2 .9-1.1 2.9-4 15.2-1.9 5.8-1.6 3.1-3.6 4.8-1.9 4.3-4.7 18.6-2 4.5zM509 578.8l1.2 1.3 1.2 3.2 5.5 21.8 1.9 4.4 2 2.4 2.4 1.5 3.9 1.2 26.7 5.2 1.7-.9-26.8-5.2-3.9-1.2-2.4-1.5-1.9-2.3-2-4.3-5.5-21.3-1.2-3.2-1.2-1.2z"/><path transform="translate(6.15 -3.45)" d="M396.5 589.6l27.2 5.4 4.3 1.4 2.4 1.4 1.9 2.6 2 4.9 5.5 23.1 1.2 2.3 1.2-.3 1.6-1.6-1.2 .2-1.2-2.2-5.5-22.6-1.9-4.8-2-2.5-2.4-1.5-4.3-1.3-27.1-5.4zM443.8 628.8l1.6-3.9 5.1-19.5 1.6-3.3 3.5-4.8 2-3.9 5.5-19.8 1.1-3 1.2-1-1.6 .2-1.2 1.1-1.2 3.1-5.5 20.2-1.9 3.9-3.6 4.9-1.5 3.4-5.2 20-1.5 4zM463.8 569.8l1.2 1.1 1.2 3.2 5.9 23.6 1.5 3.8 4 7 1.5 4.2 5.9 24.6 1.2 2.1 .8-.1 1.6-1.6-.8 0-1.1-2-5.9-24.1-1.6-4-3.9-7-1.6-3.7-5.9-23.2-1.2-3.1-1.2-1zM488.6 637.7l2-4.5 4.7-18.4 2-4.2 3.5-4.8 1.6-3 2-5.8 3.9-15.1 2-3.6-1.7 .3-1.9 3.7-4 15.4-1.9 5.9-1.6 3-3.6 4.9-1.9 4.4-4.7 18.8-2 4.6zM508.6 578.6l1.2 .5 1.2 2.7 6.3 24.4 1.6 3.3 1.9 2.4 2.4 1.5 3.9 1.2 26.7 5.2 1.7-.9-26.8-5.2-3.9-1.2-2.4-1.5-1.9-2.4-1.6-3.2-6.3-24-1.2-2.6-1.1-.5z"/><path transform="translate(5.21 -2.92)" d="M396.5 589.6l27.2 5.4 4.3 1.4 2.4 1.5 1.9 2.5 1.6 3.7 5.5 23.4 1.2 3 1.2 .6 1.6-1.5-1.2-.6-1.2-3-5.5-22.9-1.5-3.6-2-2.6-2.4-1.5-4.3-1.3-27.1-5.4zM443.4 629.6l2-4.3 5.1-19.8 1.5-3.4 3.6-4.9 2-3.9 5.5-20 1.1-3 1.2-1.1-1.6 .3-1.2 1.2-1.2 3-5.5 20.4-1.9 4-3.6 5-1.6 3.4-5.1 20.2-1.9 4.4zM463.8 569.5l1.2 1.1 1.1 3.2 5.9 23.8 1.6 3.8 4 7.2 1.5 4.1 5.9 24.9 1.2 2.1 .8 0 1.6-1.6-.8 .1-1.1-2.1-5.9-24.4-1.6-4.1-4-7-1.5-3.8-5.9-23.4-1.2-3.1-1.2-1.1zM488.6 638.1l2-4.5 4.7-18.7 2-4.3 3.5-4.9 1.6-3 1.9-5.9 4-15.2 1.9-3.7-1.6 .4-1.9 3.8-4 15.5-1.9 5.9-1.6 3.1-3.6 5-1.9 4.4-4.7 19-2 4.7zM508.6 578.3l1.2 .5 1.2 2.7 6.3 24.6 1.5 3.4 2 2.4 2.4 1.5 3.9 1.2 26.7 5.2 1.7-.9-26.8-5.2-3.9-1.3-2.4-1.4-1.9-2.4-1.6-3.3-6.3-24.2-1.2-2.7-1.2-.5z"/><path transform="translate(4.26 -2.39)" d="M396.5 589.6l27.2 5.4 4.3 1.4 2.4 1.5 1.9 2.6 1.6 3.7 5.5 23.5 1.2 3.1 1.2 .6 1.6-1.4-1.2-.6-1.2-3.1-5.5-23.1-1.5-3.7-2-2.6-2.4-1.5-4.3-1.3-27.1-5.4zM443.4 630l2-4.4 5.1-20.1 1.5-3.4 3.6-4.9 2-3.9 5.5-20.3 1.1-3.1 1.2-1.1-1.6 .5-1.2 1.1-1.2 3.1-5.5 20.6-1.9 4-3.6 5-1.6 3.5-5.1 20.4-1.9 4.4zM463.8 569.3l1.2 1.1 1.2 3.2 5.8 24 1.6 3.8 4 7.2 1.5 4.2 5.9 25.1 1.2 2.1 .8 0 1.6-1.5-.8 .1-1.1-2.1-5.9-24.7-1.6-4.2-3.9-7-1.6-3.9-5.9-23.6-1.2-3.2-1.2-1.1zM488.6 638.5l2-4.6 4.7-18.9 2-4.4 3.5-4.9 1.6-3.1 2-5.9 3.9-15.4 2-3.7-1.7 .4-1.9 3.8-4 15.7-1.9 6-1.6 3.1-3.6 5-1.9 4.4-4.7 19.2-2 4.8zM508.6 578l1.2 .6 1.2 2.7 6.3 24.8 1.5 3.4 2 2.4 2.4 1.5 3.9 1.2 26.7 5.2 1.7-.9-26.8-5.2-3.9-1.3-2.4-1.4-1.9-2.4-1.6-3.4-6.3-24.4-1.2-2.7-1.1-.5z"/><path transform="translate(3.31 -1.86)" d="M396.5 589.6l27.2 5.4 4.3 1.4 2.4 1.5 1.9 2.6 1.6 3.7 5.5 23.7 1.2 3.1 1.2 .6 1.6-1.3-1.2-.6-1.2-3.1-5.5-23.3-1.5-3.8-2-2.5-2.4-1.5-4.3-1.4-27.1-5.4zM443.4 630.3l2-4.4 5.1-20.3 1.6-3.4 3.5-5 2-4 5.5-20.4 1.9-4.1-1.6 .6-2 4.1-5.5 20.7-1.9 4-3.6 5-1.5 3.5-5.2 20.5-1.1 3.5-.8 1zM463.4 569.3l1.2 .3 1.2 2.6 5.9 24.2 1.5 4.2 4 7.2 1.5 3.8 5.9 25.3 1.2 2.9 1.2 .4 1.6-1.3-1.2-.4-1.1-2.9-5.9-25-1.6-3.8-3.9-7.1-1.6-4.2-5.9-23.9-1.2-2.5-1.2-.4zM488.6 638.9l2-4.7 4.7-19.1 2-4.5 3.5-4.9 1.6-3.1 2-6 3.9-15.5 2-3.8-1.7 .6-1.9 3.8-4 15.7-1.9 6-1.6 3.2-3.6 5-1.9 4.5-4.7 19.3-2 4.8zM508.6 577.9l1.2 .5 1.2 2.7 6.3 24.9 1.5 3.4 2 2.5 2.4 1.5 3.9 1.2 26.7 5.2 1.7-.9-26.8-5.2-3.9-1.3-2.4-1.4-1.9-2.4-1.6-3.4-6.3-24.7-1.2-2.7-1.1-.5z"/><path transform="translate(2.37 -1.33)" d="M396.5 589.7l27.2 5.3 4.3 1.4 2.4 1.5 1.9 2.6 1.6 3.8 5.5 23.7 1.2 3.1 1.2 .6 1.6-1.2-1.2-.6-1.2-3-5.5-23.6-1.5-3.7-2-2.6-2.4-1.5-4.3-1.4-27.1-5.4zM443.4 630.5l.8-1 1.2-3.4 5.1-20.4 1.5-3.5 3.6-5 2-4 5.5-20.6 1.9-4.1-1.6 .7-2 4.1-5.5 20.7-1.9 4.1-3.6 5-1.6 3.5-5.1 20.6-1.1 3.5-.8 1zM463.4 569.2l1.2 .3 1.2 2.6 5.9 24.2 1.5 4.3 4 7.2 1.5 3.8 5.9 25.4 1.2 2.9 1.2 .4 1.6-1.2-1.2-.4-1.1-2.9-5.9-25.1-1.6-3.9-3.9-7.1-1.6-4.2-5.9-24.1-1.2-2.6-1.2-.3zM488.6 639.1l2-4.7 4.7-19.3 2-4.4 3.5-5 1.6-3.1 1.9-6.1 4-15.6 1.9-3.8-1.6 .6-1.9 3.9-4 15.8-1.9 6-1.6 3.2-3.6 5-1.9 4.5-4.7 19.4-2 4.8zM508.6 577.7l1.2 .6 1.2 2.7 6.3 25 1.5 3.4 2 2.5 2.4 1.5 3.9 1.2 26.7 5.2 1.7-.9-26.8-5.2-3.9-1.3-2.4-1.4-1.9-2.5-1.6-3.4-6.3-24.8-1.2-2.7-1.2-.5z"/><path transform="translate(1.42 -0.8)" d="M396.5 589.7l27.2 5.3 4.3 1.4 2.4 1.5 1.9 2.6 1.6 3.8 5.5 23.8 1.2 3.1 1.2 .6 1.6-1.1-1.2-.6-1.2-3.1-5.5-23.7-1.5-3.7-2-2.6-2.4-1.5-4.3-1.4-27.1-5.4zM443.4 630.7l.8-1 1.2-3.4 5.1-20.6 1.5-3.5 3.6-5 2-4.1 5.5-20.7 1.9-4.1-1.6 .8-2 4.1-5.5 20.8-1.9 4.1-3.6 5-1.6 3.5-5.1 20.7-1.1 3.4-.8 1.1zM463.4 569.1l1.2 .4 1.2 2.5 5.9 24.3 1.5 4.3 4 7.2 1.5 3.9 5.9 25.4 1.2 2.9 1.2 .4 1.6-1.1-1.2-.4-1.1-2.9-5.9-25.3-1.6-3.8-3.9-7.2-1.6-4.3-5.9-24.2-1.2-2.5-1.2-.4zM488.6 639.3l2-4.8 4.7-19.3 2-4.5 3.5-5 1.6-3.2 2-6 3.9-15.7 1.9-3.9-1.6 .8-1.9 3.9-4 15.8-1.9 6-1.6 3.2-3.6 5-1.9 4.5-4.7 19.5-2 4.8zM508.6 577.7l1.2 .6 1.2 2.7 6.3 25 1.5 3.4 2 2.5 2.4 1.5 3.9 1.2 26.7 5.3 1.7-1-26.8-5.2-3.9-1.3-2.4-1.4-1.9-2.5-1.6-3.4-6.3-24.9-1.2-2.7-1.2-.6z"/><path transform="translate(0.47 -0.27)" d="M397.2 589.3l27.2 5.3 4.3 1.4 2.3 1.5 2 2.6 1.6 3.8 5.5 23.8 1.2 3.1 1.2 .6 .9-.6-1.2-.6-1.2-3.1-5.5-23.7-1.5-3.8-2-2.6-2.4-1.5-4.3-1.4-27.1-5.4zM443.4 630.8l.8-1 1.2-3.4 5.1-20.7 1.6-3.5 3.5-5 2-4.1 5.5-20.7 1.9-4.2-.9 .5-2 4.2-5.5 20.7-2 4.1-3.5 5-1.6 3.5-5.1 20.7-1.2 3.5-.7 1zM464.1 568.7l1.2 .4 1.1 2.6 5.9 24.2 1.6 4.3 3.9 7.2 1.6 3.9 5.9 25.4 1.2 2.9 1.2 .4 .9-.6-1.2-.4-1.1-2.9-5.9-25.4-1.6-3.8-3.9-7.3-1.6-4.2-5.9-24.3-1.2-2.5-1.2-.4zM488.6 639.4l2-4.8 4.7-19.4 2-4.5 3.5-5 1.6-3.2 2-6 3.9-15.8 2-3.9-1 .5-2 3.9-3.9 15.8-2 6-1.5 3.2-3.6 5-1.9 4.5-4.8 19.5-1.9 4.8zM509.3 577.3l1.2 .6 1.2 2.7 6.3 25 1.5 3.4 2 2.5 2.4 1.5 3.9 1.2 26.7 5.3 1-.6-26.8-5.2-3.9-1.3-2.4-1.4-1.9-2.5-1.6-3.4-6.3-25-1.2-2.7-1.1-.6z"/></g>
<g text-anchor="middle" font-size="12"><text x="412.5" y="669.4">20</text><text x="443.4" y="675.4">10</text><text x="474.4" y="681.3">0</text><text x="503.3" y="687.2">-10</text><text x="534.2" y="693.2">-20</text><text x="568.6" y="691.6">0</text><text x="583.8" y="683.1">1</text><text x="598.9" y="674.6">2</text><text x="614.1" y="666.1">3</text><text x="629.2" y="657.6">4</text><text x="644.4" y="649.1">5</text><text x="659.5" y="640.6">6</text></g>
<g text-anchor="middle" font-size="13.3"><text x="453.0" y="692.0">z</text><text x="640.0" y="671.0">ρ</text><text x="364.8" y="546.3" text-anchor="start"><tspan class="s">Φ</tspan>(z,ρ)</text></g>
<g text-anchor="end" font-size="12"><text x="391.2" y="610.7">-0.5</text><text x="391.2" y="591.8">0</text><text x="391.2" y="572.9">0.5</text></g>
<!-- l -->
<g fill="none" stroke="#000" stroke-width=".55">
<path d="M714.3 660.5L847.4 684.5L924.1 642.7L791.0 618.7Z"/>
<path d="M730.9 663.5L732.4 662.7M807.6 621.7L806.1 622.5M747.6 666.5L749.1 665.7M824.3 624.7L822.8 625.5M764.2 669.5L765.7 668.7M840.9 627.7L839.4 628.5M780.8 672.5L782.3 671.7M857.5 630.7L856.1 631.5M797.5 675.5L799.0 674.7M874.2 633.7L872.7 634.5M814.1 678.5L815.6 677.7M890.8 636.7L889.3 637.5M830.8 681.5L832.3 680.7M907.5 639.7L906.0 640.5M860.2 677.5L856.8 676.9M727.1 653.5L730.4 654.1M873.0 670.6L869.6 670.0M739.9 646.6L743.2 647.2M885.8 663.6L882.4 663.0M752.6 639.6L756.0 640.2M898.5 656.6L895.2 656.0M765.4 632.6L768.8 633.2M911.3 649.7L908.0 649.1M778.2 625.7L781.6 626.3"/>
</g>
<g fill="none" stroke-width=".42">
<path d="M721.8 661.9l22.4-11.8 23-11.1 20.9-9.2 20-8M907 639.6l-12 9.5-14.9 10.2-19.1 11.9-21.1 11.9" stroke="#00c000" stroke-dasharray="2 1"/>
<path d="M736.4 664.5l12.7-6.5 12.7-5.6 10.3-3.7 4-1 2.8-.3 1.8 .2 .7 .5 .3 .6-.3 1.6-2.3 4.2 .3 .7 .4 .2 4.4-.8 16.9-4.8 3.3-.6 3.3-.2 1.7 .3 1.1 1 0 1.6-1.2 3.5 .2 .7 .7 .4 3.6-.3 14.3-3 3 0 1.8 .6 .4 1-.2 1.3-1.2 2-3.4 4.5-.4 1 .5 .6 2.7-.3 14.7-3.6 3.5-.3 1.8 .6 .2 1.2-.9 1.5-5.1 4.6-9.2 6.3-11 6.3" stroke="#0000ff" stroke-dasharray="1 2"/>
<path d="M741.6 665.4l10-4.7 3.5-1.1 2.4-.1-.3 .9-2.1 1.9-6.9 4.3M764.7 669.6l6.8-3.4 6.9-2.9 5.1-1.5 2 .1 0 .8-.5 .7-2.3 2-9.1 5.8M788.1 673.8l6.8-3.4 6.9-2.9 4.9-1.4 2.1 0 .2 .7-.4 .6-2.1 2-4.1 2.8-5.4 3.2M813.5 678.4l5.4-2.7 5.2-2.2 3.3-1.1 1.1-.1 1 .2-.6 1.2-1.9 1.6-6.9 4.3" stroke="#ff00ff" stroke-dasharray=".7 .5"/>
</g>
<g fill="none" stroke="#000" stroke-width=".6">
<path d="M714.5 660.5L714.5 573.1M714.5 632.5L718.0 632.5M714.5 612.5L718.0 612.5M714.5 592.5L718.0 592.5M714.5 573.5L718.0 573.5M847.5 684.5L847.5 605.7"/>
</g>
<linearGradient id="Pl" gradientUnits="userSpaceOnUse" x1="714.30" y1="620.48" x2="719.47" y2="591.80"><stop offset="0" stop-color="#ecdce6"/><stop offset="0.03" stop-color="#e2cdd9"/><stop offset="0.06" stop-color="#d4b9c6"/><stop offset="0.1" stop-color="#c3a0ac"/><stop offset="0.15" stop-color="#aa8087"/><stop offset="0.2" stop-color="#91625f"/><stop offset="0.25" stop-color="#7a463a"/><stop offset="0.29" stop-color="#642816"/><stop offset="0.334" stop-color="#46050a"/><stop offset="0.388" stop-color="#370050"/><stop offset="0.448" stop-color="#32008c"/><stop offset="0.51" stop-color="#3200be"/><stop offset="0.57" stop-color="#2d00e6"/><stop offset="0.645" stop-color="#1e00ff"/><stop offset="0.72" stop-color="#0058ff"/><stop offset="0.8" stop-color="#0096ff"/><stop offset="0.86" stop-color="#00cdff"/><stop offset="0.9" stop-color="#00ebff"/><stop offset="0.93" stop-color="#00ffff"/><stop offset="1" stop-color="#00ffff"/></linearGradient>
<g stroke-width=".6" stroke-linejoin="round" fill="url(#Pl)" stroke="url(#Pl)"><path d="M777.6 546.8l12 3.5 18.3 6.8 26 6 22.3 4 22.9 3 20-.1 11.6 .8 13.4-7.4-32.9-2.3-21.3-2.9-21-3.8-27-5.9-30.9-9.1z" fill="#00ffff" stroke="#00ffff"/><path d="M764.9 553.9l12.9 4.2 17 8 13 2.4 12.6 3.8 11 1.2 12 2.9 11.6 .7 12.3 2.2 4-.1 13.7-1.8 13 .5 13.3-7.4-12-.8-18.3 .1-25.9-3.4-22.3-4-23-5.3-19.9-7.2-11.7-3.4z" fill="#00ffff" stroke="#00ffff"/><path d="M758.5 557.5l13.6 4.7 16 8.7 3.3 .9 9.7 1.1 12.6 4.4 10.7 .6 11.9 3.4 12.7 .3 12 2.6 3.9-.2 13-2.8 6-.2 7.7 .5 6.9-3.9-12.9-.5-13.7 1.7-4 0-12.3-2.1-11.6-.7-12-2.9-11-1.3-12.6-3.7-13-2.4-17-7.9-13-4.2z" fill="#00ffff" stroke="#00ffff"/><path d="M755.3 559.2l7.6 2.4 6.3 2.6 15.7 9.3 3.3 .9 9.7 .8 12.6 4.7 10.7 .3 11.9 3.8 12.7-.2 12.3 3.1 3.3-.4 8.3-2.5 4.7-.8 6.3-.4 7.7 .4 3.7-2.1-13.3-.2-13.3 2.6-4 .3-12-2.6-12.6-.3-12-3.4-10.6-.7-12.3-4.2-10-1.3-3.3-.8-16-8.7-13.7-4.7z" fill="#00ffff" stroke="#00ffff"/><path d="M753.7 560.1l7.6 2.4 6.3 2.6 15.7 9.8 3.3 .8 9.7 .6 12.6 5 11.3 .2 12.3 4 12-.5 9 2.7 3 .5 3.3-.4 8-2.6 5-1.1 6.3-.4 7.7 .4 2.1-1.2-7.6-.4-6 .3-5 .9-8.3 2.4-3.3 .3-12.3-3-12.7 .1-12-3.7-10.6-.4-12.7-4.6-9.6-.9-3.3-.8-15.7-9.2-6.3-2.6-7.7-2.4z" fill="#00ffff" stroke="#00ffff"/><path transform="translate(38.35 -20.9)" d="M713.7 581.9l8 2.5 6.3 2.8 15.3 9.9 3.4 .8 6.3 0 3.3 .5 9.7 4.3 3 .9 11.3 0 9.3 3.5 3 .7 8.6-.8 3.4 .1 9.3 2.9 2.6 .5 3.4-.5 8-2.9 4.9-1.1 6.4-.5 7.6 .4 2.2-1.2-7.7-.4-6.3 .4-5 1-8 2.5-3.3 .4-12-3.1-11.9 .4-12.4-3.9-11.3-.3-12.6-4.9-9.7-.7-3.3-.8-15.6-9.6-6.3-2.6-7.7-2.4z"/><path transform="translate(36.75 -20.03)" d="M713.7 581.9l8 2.5 6.3 2.8 15.3 10.4 3.4 .8 6.3-.2 3.3 .5 12.3 5.3 11.7-.1 3.3 1 6.3 2.8 2.7 .6 8.6-1 3.4 0 9.3 3.2 2.6 .5 3.4-.5 7.6-3.1 5-1.3 6.3-.5 8 .3 2.2-1.2-7.7-.4-6.3 .4-5 1.1-8 2.9-3.3 .4-2.6-.4-9.4-2.9-11.9 .6-12.4-4.1-11.3-.1-3-.9-9.6-4.2-9.7-.5-3.3-.8-15.3-9.8-6.3-2.8-8-2.5z"/><path transform="translate(35.15 -19.16)" d="M713.7 581.9l8.3 2.7 6.4 2.9 14.9 10.7 3 .7 6.7-.4 3.3 .4 12.3 5.7 11.7-.4 3.3 1 6.3 3 2.7 .7 8.6-1.3 3.4 0 3.3 .9 6 2.5 2.6 .5 3.4-.6 7.6-3.4 5-1.3 6.3-.6 8 .3 2.2-1.2-8-.3-6.3 .5-5 1.2-7.7 3-2.6 .5-3.3-.4-6.4-2.4-3.3-.8-12.3 .9-11.6-4.3-3.4-.2-6.3 .5-2.7-.4-8.6-4.1-3.3-1.1-9.4-.3-2.6-.5-3.3-1.7-7.7-5.7-5-3.1-6.3-2.7-8-2.6z"/><path transform="translate(33.56 -18.29)" d="M713.7 581.9l8.3 2.7 6.4 3 4.3 2.8 7.6 6.5 3 1.8 3 .7 6.7-.5 3.3 .3 3.3 1.3 6.4 3.7 2.6 1 2.7 .1 6-1 3 .2 3.3 1 6.3 3.3 2.7 .7 2.6-.2 6-1.4 3.4 0 3.3 .9 6 2.8 2.6 .5 3-.6 7.7-3.6 5-1.6 6.3-.7 8.3 .3 2.2-1.2-8.3-.3-6.3 .6-4.7 1.3-7.7 3.3-2.6 .5-3-.3-6.7-2.7-3.3-.8-3.3 0-6.3 1.2-2.7-.1-11.7-4.5-3.3-.2-6.3 .7-2.7-.3-8.6-4.4-3.3-1.1-3-.4-6.4 .3-2.6-.5-3.4-1.7-7.6-6-5-3.2-6.3-2.8-8-2.6z"/><path transform="translate(31.96 -17.42)" d="M713.7 581.9l8.7 2.9 6.3 3.1 4.7 3.2 7.3 6.5 2.6 1.7 3 .7 6.7-.8 3.3 .3 3.3 1.3 6.7 4.2 2.3 .8 2.7 0 6-1.1 3 .1 3.3 1.1 6.3 3.5 2.7 .7 2.6-.3 6-1.6 3.4 0 3.3 1 6 2.9 2.6 .6 3-.7 7.7-4 5-1.6 6.3-.7 8.3 .2 2.2-1.2-8.3-.3-6.3 .7-4.7 1.4-7.7 3.5-2.6 .7-3-.4-6.7-2.9-3.3-.8-3.3 0-6.3 1.4-2.7 0-11.7-4.8-3.3-.2-6.3 .9-2.7-.3-8.6-4.6-3.3-1.1-3.4-.3-6 .5-2.6-.5-3-1.6-8-6.6-4.7-3-6.3-3-8.3-2.7z"/><path transform="translate(30.36 -16.55)" d="M713.7 581.9l8.7 2.9 6.3 3.1 4.7 3.4 7.6 7.1 3 1.8 2.7 .3 6-1 3.3 .2 3.3 1.3 6.3 4.2 2.4 1.1 2.6 .2 6.3-1.5 3.4 .1 3 1 6 3.6 2.6 .9 3-.1 6.3-2 3-.1 3.4 .9 6.6 3.5 3 .4 3-.9 7.3-4.2 4.4-1.6 6.3-.8 8.6 .2 2.2-1.2-8.3-.2-6.3 .7-4.4 1.3-7.6 3.9-3 .8-3-.4-6.7-3.1-3.3-.8-3.3 .1-6.3 1.6-2.7 0-2.7-.9-6-3.3-3-.9-3.3-.1-6.3 1.1-2.7-.3-8.6-4.8-3.3-1.3-3.4-.2-6 .7-2.6-.4-3-1.7-7.7-6.6-5-3.4-6.3-3-8.3-2.8z"/><path transform="translate(28.76 -15.67)" d="M713.7 581.9l8.7 2.9 6.3 3.2 4.3 3.2 7.3 7.2 3 2.2 3 .6 6.4-1.4 3.6 .2 3 1.3 6.7 4.7 2.6 1.1 2.7-.1 6-1.7 3 .1 3.3 1.2 6.3 4 2.7 .8 2.3-.3 6.3-2.3 3.4-.1 3.3 1.1 6.3 3.6 2.3 .5 3-.8 7.4-4.5 5-2 6.3-.9 8.6 .2 2.2-1.1-8.7-.3-6.3 .8-4 1.4-7.6 4.2-3 .9-3-.4-6.7-3.4-3.3-.9-3 .1-6.3 1.9-3 .1-2.7-.9-6-3.5-2.9-1-3.4-.1-6.3 1.4-2.7-.3-2.3-1-6.3-4.1-3.3-1.3-3.4-.2-6 .9-2.6-.3-3-1.8-7.7-7-4.6-3.3-6.3-3.1-8.7-2.8z"/><path transform="translate(27.16 -14.8)" d="M713.7 582l8.7 2.9 6.6 3.4 4.4 3.4 7.3 7.5 2.6 2 3 .6 6.4-1.6 3.6 .1 3 1.3 6.7 5 2.6 1.2 2.7-.2 6-1.9 3 0 3.3 1.2 6.3 4.3 2.7 .8 2.3-.3 6-2.5 3.7-.2 3.3 1.1 6.3 3.9 2.3 .6 2.7-.7 7.7-5.1 4.6-2 6.7-1 8.6 .2 2.2-1.2-8.6-.3-6.4 .9-5 1.9-7.3 4.4-3 .8-2.6-.6-6-3.4-3.4-1.1-3.3 .1-6.3 2.2-2.3 .2-2.7-.7-6.3-3.9-3.3-1.2-3-.1-6 1.6-2.7 .1-3-1.3-6.3-4.4-3-1.2-3.7-.3-6.3 1.2-3-.6-3-2.1-7.3-7.1-4.3-3.1-6.3-3.1-8.7-2.9z"/><path transform="translate(25.57 -13.93)" d="M713.7 582l9 3 6.3 3.4 5 4.1 7.3 7.9 3 1.9 2.7 0 6-1.9 3 .1 3.6 1.6 6 4.9 2.4 1.3 2.6 .1 6.3-2.3 3.4-.1 3 1.1 6.3 4.6 2.7 1 2.6-.4 6-2.7 3.3-.4 3 .9 6.7 4.4 2.6 .8 2.7-.8 3.7-2.7 2.1-1.7-3.6 2.4-2.7 .6-2.6-.7-6.7-3.9-3-.8-3.3 .2-6 2.4-2.7 .3-2.6-1-6.4-4.2-3-1-3.3 0-6.3 1.9-2.7-.1-2.3-1.2-6-4.5-3.6-1.5-3-.2-6 1.5-2.7-.1-3-1.8-7.6-7.7-5-3.8-6.4-3.2-8.6-2.9zM825 610.1l2.4-1.6-2.2 1.6-2.3 1.7zM825.2 610.1l4-2.4 4.6-1.4 5.7-.6 7.3 .3 2.2-1.2-7-.3-5.6 .5-4.7 1.3-4.3 2.2z"/><path transform="translate(23.97 -13.06)" d="M713.7 582l9 3.1 6.3 3.4 5 4.2 7.3 8.4 3 1.9 2.4 0 6.3-2.3 3 .1 3.6 1.6 6 5.3 2.4 1.3 2.3 .2 6.3-2.7 3.7-.2 3 1.1 6.3 5 2.7 1.1 2.6-.6 5.7-2.9 3-.5 4 1.1 5.9 4.3 2 .9 2.7-.2 3.3-2.2 2.2-1.9-3.3 2-2.7 .2-2.3-1-5.7-3.7-4-1.1-2.6 .4-6 2.6-2.7 .4-2.6-1-6.4-4.5-3-1.1-3.3 .1-6.3 2.2-2.7-.1-2.3-1.3-6-4.8-3.6-1.6-3-.1-6 1.8-2.7 0-3-1.9-7.3-7.8-5-4-6.3-3.3-9-3.1zM823.7 611.5l4.7-3.4-2.2 1.5-4.7 3.8zM826.2 609.6l4-2.2 4.3-1.2 5.3-.5 7 .3 2.2-1.2-7-.3-5.3 .5-4.3 1.1-4 2z"/><path transform="translate(22.37 -12.19)" d="M713.7 582l9 3.1 6.7 3.7 5 4.4 7.3 8.8 2.6 1.7 2.4-.1 6-2.5 3-.1 3.6 1.5 6.7 6.1 2.6 1.4 2.4-.3 5.9-2.9 2.7-.4 3.7 1.3 6.3 5.3 2.3 1.2 2.4-.3 5.9-3.4 3.4-.8 4 1.2 6 4.6 1.9 1.1 2.4-.1 3-2.1 2.1-1.9-3 1.8-2.3 .1-2-.9-6-4.2-4-1.1-3.3 .6-6 3-2.3 .2-2.3-1.1-6.4-4.8-3.6-1.2-2.7 .2-6 2.5-2.3 .2-2.7-1.3-6.6-5.6-3.7-1.5-2.6 .1-6 2-2.7 .1-3-1.9-7.3-8.3-5-4.1-6.3-3.4-9-3.1zM823 612.5l6-4.6-2.1 1.4-6 5.1zM826.9 609.3l3.6-1.9 4.3-1.2 5.4-.4 6.6 .2 2.2-1.2-6.7-.2-5.3 .4-4.3 1.1-3.7 1.8z"/><path transform="translate(20.77 -11.32)" d="M713.7 582l9 3.1 6.7 3.8 5 4.6 7.3 9.2 2.3 1.7 2.3 0 6-2.9 3.4-.3 3.9 1.9 6.4 6.2 2.3 1.4 2.3-.2 5.7-3.2 3.3-.6 3.7 1.4 6.3 5.6 2.3 1.2 2.4-.3 5.9-3.8 3.4-.8 4 1.2 6 5 1.9 1.1 2.4-.1 2.3-1.6 2.2-2-2.3 1.4-2.4 .1-2-1-6-4.5-4-1.2-3.3 .8-6 3.3-2.3 .2-2.3-1.1-6.4-5.2-3.6-1.2-2.7 .3-6 2.7-2.3 .3-2.7-1.3-6.6-6-3.7-1.5-3 .1-6 2.4-2.3 .1-3-2-7-8.3-5-4.4-6.6-3.7-9-3.1zM822.4 613.6l7.3-5.9-2.2 1.4-7.3 6.5zM827.5 609.1l3.7-1.9 4-1 5-.4 6.6 .2 2.2-1.2-11.3 .1-4.3 1-3.7 1.8z"/><path transform="translate(19.18 -10.45)" d="M713.7 582l9.3 3.3 6.7 3.9 5 4.8 7 9.4 2.3 1.8 2 0 6-3.2 3.6-.5 4 1.9 6.4 6.6 2.3 1.5 2.3-.3 6.3-3.8 3-.4 3.7 1.6 6 5.8 2.3 1.3 2.7-.6 6-4.2 3.3-.7 4 1.5 5.6 5.1 2 1.3 2 0 2.4-1.6 2.1-2-2.3 1.4-2.3-.2-7.3-5.6-4-1.4-3 .5-6.3 3.8-2.7 .5-2.3-1.2-6-5.3-3.7-1.5-3 .3-6 3.1-2.6 .3-2.4-1.4-6.3-6-4-1.9-3.3 .3-6 2.8-2.3-.1-2.4-1.6-7.3-9.1-5-4.5-6.6-3.8-9-3.1zM822 614.5l5-4.7 3.4-2.4-2.2 1.4-3.3 2.6-5 5.1zM828.2 608.8l3.6-1.7 4-1 11-.1 2.2-1.2-11 .1-4 .9-3.6 1.6z"/><path transform="translate(17.58 -9.58)" d="M713.7 582l9.3 3.3 6.7 4 4.3 4.1 7.3 10.3 2.7 2.3 2.3-.2 6.4-3.8 2.9-.3 2 .6 2 1.3 6.4 7.1 2.3 1.6 2.3-.4 6-4.1 3-.6 2 .5 2 1.2 6 6.2 2 1.4 2.3-.3 3-2.3 2.2-1.8-3.3 2-2.4 0-7.6-6.8-2-1.1-2-.5-3.3 .7-5.7 3.4-2.3 .2-2.4-1.5-6.3-6.4-4-1.9-3.3 .4-6 3.1-2.3 0-2.4-1.7-6.9-9.2-5-4.8-6.7-3.9-9.3-3.3zM799.1 612.1l1.3-1-2.2 1.7-1.3 1.1zM798.2 612.8l3.4-2 3.3-.2 3.3 1.6 7 6.5 2 .3 2.3-1.6 2.2-2-2.3 1.3-2-.2-7-5.9-3.3-1.5-3.4 .2-3.3 1.8zM821.7 615.4l5.7-5.6 3.3-2.4-2.2 1.3-3.6 2.9-5.4 5.8zM828.5 608.7l3.3-1.6 4-.9 11-.2 2.2-1.2-11 .1-4 1-3.3 1.5z"/><path transform="translate(15.98 -8.71)" d="M713.7 582l9.7 3.5 6.6 4.1 4.4 4.4 6.9 10.3 2.4 2.4 2.3 0 6-4.1 3.7-.7 1.9 .6 2.4 1.7 6 7.2 2 1.6 2.3-.2 3-2.3 2.2-1.8-3.4 2.1-2.3-.3-7.7-7.9-2.3-1.6-2-.6-3.6 .6-6 3.5-2.4-.1-2.3-2.1-7.3-10.1-4.3-4.1-6.7-4-9.3-3.3zM775.5 608.7l.6-.5-2.1 1.8-.7 .5zM774 610l3.3-2.1 3.3-.3 3.7 2.2 7 7.3 2 .2 2.6-1.9 2.2-2-2.7 1.6-2-.2-7.3-6.9-3.3-1.8-3 .1-3.7 2zM798.1 613.4l3.3-2.7-2.2 1.7-3.3 3zM799.2 612.4l3-1.6 3 .1 3.4 1.9 6.6 6.7 2 .3 2-1.4 2.2-2.1-2 1.2-2-.2-6.7-6.1-3.3-1.8-3-.1-3 1.4zM821.4 616.3l6-6.3 3.6-2.7-2.1 1.3-4 3.2-5.7 6.6zM828.9 608.6l3.3-1.5 4-1 10.6-.1 2.2-1.2-10.7 .1-3.9 .9-3.4 1.5z"/><path transform="translate(14.38 -7.84)" d="M713.7 582l10 3.7 6.7 4.3 4.6 5.1 6.3 9.9 2 2.3 2 .4 3-2.1 2.2-1.9-3 1.7-2-.4-2.3-2.5-6.3-9.3-4.7-4.8-6.7-4.1-9.6-3.5zM750.5 603.7l1.7-1.2-2.2 1.7-1.7 1.4zM750 604.2l3.7-2 3.3 .2 3.6 2.7 7 8.5 2 .3 2.4-1.6 2.1-2-2.3 1.3-2-.3-7.3-8.1-3.3-2.2-3.4-.3-3.6 1.8zM774.1 610.3l3.4-2.7-2.2 1.7-3.3 3zM775.3 609.3l3-1.5 3 .2 3.3 2.4 6.7 7.6 1.6 .2 2.3-1.6 2.2-2-2.3 1.3-2-.4-6.3-6.7-3.4-2.3-2.9-.2-3 1.3zM797.4 614.6l4.3-3.8-2.1 1.6-4.4 4.2zM799.6 612.4l3-1.4 3 .2 3.3 2.2 6.3 6.9 1.7 .4 2-1.3 2.1-2.1-1.9 1.1-1.7-.4-6.7-6.5-3-1.8-3-.2-3 1.3zM821 617.3l6.4-7.1 4-3-2.2 1.3-4.3 3.6-6 7.3zM829.2 608.5l3.3-1.5 3.7-.8 10.6-.2 2.2-1.2-10.6 .1-3.7 .9-3.3 1.4z"/><path transform="translate(12.78 -6.97)" d="M713.7 582l8.7 3.1 6.3 3.6 3 2.6 3 3.5 8.3 13 2 .8 2.3-1.6 2.2-1.9-2.7 1.2-1.9-1.1-8.4-12.3-5.6-5.5-6.3-3.5-8.7-3.1zM749.5 605.1l3.7-2.9-2.2 1.6-3.7 3.2zM751 603.8l3.3-1.5 3 .5 3.7 3 6.6 8.7 1.7 .3 2-1.3 2.2-2.1-2 1.1-2-.6-6.7-8.1-3.3-2.5-3-.5-3.3 1.4zM773.5 611.4l4.3-3.7-2.2 1.6-4.3 4.2zM775.6 609.3l3-1.4 3 .5 3.3 2.6 6 7.6 1.7 .5 2-1.2 2.2-2.1-2 1-1.7-.5-6.3-7.2-3-2.2-3-.4-3 1.2zM796.8 615.8l5.6-5.1-2.2 1.5-5.6 5.7zM800.2 612.2l3-1.2 2.7 .5 3.3 2.5 6 7.1 1.7 .4 1.6-1.1 2.2-2.1-1.6 .9-1.7-.4-6.3-6.7-3-2.1-2.7-.4-3 1.1zM820.7 618.3l6.7-7.8 4-3.2-2.2 1.3-4.3 3.7-6.4 8.1zM829.2 608.6l3.3-1.5 3.7-.9 10.6-.2 2.2-1.2-10.6 .2-3.7 .8-3.3 1.5z"/><path transform="translate(11.19 -6.1)" d="M713.7 582l9.3 3.4 6.4 3.9 5.6 6.1 8 13.2 1.7 .8 2-1.2 2.1-2-2 .9-2-1.1-7.9-12.5-5.7-5.8-6.3-3.7-9-3.2zM748.8 606.2l4.7-4-2.2 1.6-4.6 4.4zM751.3 603.8l3.3-1.4 3 .7 3.4 2.9 6.6 9.3 1.7 .4 1.7-1.2 2.1-2.1-2 1-1.6-.7-6.4-8.2-3.3-2.8-3-.7-3.3 1.2zM773.1 612.4l5-4.6-2.2 1.6-4.9 5.1zM775.9 609.4l3-1.3 3 .6 3.4 3 5.6 7.7 1.7 .6 1.6-1.1 2.2-2.2-1.6 .9-1.7-.5-6-7.4-3.3-2.6-2.7-.5-3 1.2zM796.4 616.7l6-5.7-2.2 1.5-6 6.4zM800.2 612.5l3-1.3 3 .6 3.4 2.8 5.6 7.2 1.3 .6 1.7-.9 2.2-2.2-1.7 .8-1.3-.5-6-6.9-3-2.3-3-.6-3 1.2zM820.4 619.3l7-8.6 4.3-3.5-2.2 1.3-4.6 4-6.7 9zM829.5 608.5l3.3-1.5 3.7-.8 10.3-.2 2.2-1.2-10.3 .2-3.7 .7-3.3 1.5z"/><path transform="translate(9.59 -5.22)" d="M713.7 582l9.3 3.4 6.7 4.2 3 2.9 2.7 3.5 7.6 13.4 1.7 .9 1.6-1.1 2.2-2.1-2 .8-1.7-1.1-7.6-12.7-5.7-6.1-6.3-3.8-9.3-3.4zM748.5 607.1l5.3-4.8-2.1 1.5-5.4 5.4zM751.7 603.8l3.3-1.3 3 .9 3.3 3.2 6 9.2 1.3 .8 1.7-.8 2.2-2.2-1.7 .6-1.3-.7-6-8.4-3.3-3.1-3-.9-3.4 1.2zM772.5 613.6l6-5.8-2.2 1.5-6 6.5zM776.3 609.3l3-1.1 3 .9 3 2.8 5.6 8.2 1.4 .7 1.6-.9 2.2-2.2-1.7 .8-1.3-.6-6-7.9-3-2.5-2.7-.7-2.9 1zM796.1 617.7l6.6-6.7-2.1 1.4-2.4 2.1-4.3 5.4zM800.6 612.4l3-1.1 3 .8 3 2.7 5.6 7.8 1.3 .7 1.4-.7 2.1-2.3-1.3 .6-1.3-.5-5.7-7.1-3-2.6-3-.8-3 1.1zM820 620.3l7.4-9.5 4.6-3.7-2.1 1.2-5 4.3-7 10zM829.9 608.3l3.3-1.4 3.6-.8 10-.1 2.2-1.2-10 .1-3.6 .8-3.4 1.4z"/><path transform="translate(7.99 -4.35)" d="M713.7 582l9.7 3.6 6.6 4.3 3 3.1 2.7 3.7 7.3 13.5 1.3 .9 1.4-.7 2.1-2.1-1.6 .4-1.4-1.2-7.3-12.7-5.3-6.2-6.7-4.2-9.6-3.6zM747.8 608.3l6.4-6-2.2 1.4-6.3 6.7zM752 603.7l3.3-1.1 3 1.2 3.3 3.5 5.7 9.2 1.3 .9 1.4-.6 2.1-2.2-1.3 .5-1.3-.8-5.7-8.5-3.3-3.4-3-1.1-3.3 1zM772.1 614.6l6.7-6.7-2.2 1.4-2.3 2.1-4.3 5.4zM776.6 609.3l3-1 2.7 .9 3.3 3.4 5.3 8.3 1.4 .8 1.3-.8 2.2-2.1-1.4 .6-1.3-.7-5.7-8-3-2.9-2.6-.8-3 .9zM795.8 618.8l4.6-5.6 2.7-2.3-2.2 1.4-2.7 2.5-4.6 6.1zM800.9 612.3l3-.9 2.7 .9 3.3 3.1 5.6 8.2 1 .5 1.4-.8 2.1-2.2-1.3 .7-1.3-.7-5.7-7.5-3-2.7-2.6-.8-3 .8zM820 621.1l7-9.7 5-4.3-2.1 1.3-2.7 1.9-2.7 2.9-6.6 10.1zM829.9 608.4l3.3-1.5 3.6-.8 10-.1 2.2-1.2-10 .1-3.6 .8-3.4 1.4z"/><path transform="translate(6.39 -3.48)" d="M713.7 582l10 3.7 6.7 4.5 3 3.3 2.6 3.8 7 13.6 1 .9 1.3-.4 2.2-2.1-1.3 .2-1.4-1.2-6.9-12.9-5.4-6.4-6.6-4.5-10-3.7zM747.5 609.3l4.7-5.2 2.3-1.8-2.2 1.3-2.6 2.4-4.4 5.4zM752.3 603.6l3.4-.8 2.9 1.3 3.4 3.9 5.3 9.2 1 1 1.3-.5 2.2-2.1-1.3 .3-1-.8-5.4-8.6-3.3-3.7-3-1.4-3.3 .9zM771.8 615.6l5-5.9 2.3-1.9-2.2 1.4-2.6 2.4-4.7 6.1zM776.9 609.2l3-.8 3 1.4 3 3.5 5 8.3 1.4 .9 1-.6 2.1-2.1-1 .4-1.3-.8-5.3-8.1-3-3.1-2.7-1.1-3 .7zM795.4 619.8l5-6.3 2.7-2.4-2.2 1.4-3 2.9-4.6 6.5zM800.9 612.5l3-1 3 1.1 3.3 3.5 5.3 8.3 1 .5 1-.6 2.2-2.1-1 .4-1.3-.7-5.3-7.7-3-3-3-1-3 .9zM819.7 622.2l7.3-10.7 2.7-2.7 2.7-1.8-2.2 1.2-3 2.2-2.7 2.9-7 11zM830.2 608.2l3-1.3 3.6-.8 10-.1 2.2-1.2-10 .1-3.6 .8-3 1.3z"/><path transform="translate(4.79 -2.61)" d="M713.7 582l10 3.8 3.7 2.1 3.3 2.7 3 3.3 2.7 4.1 6.6 13.5 1 1 1.3-.6 2.2-1.9-1.3 .3-1-.8-7.3-13.9-5.4-6.6-6.6-4.4-10-3.8zM747.5 610l4.3-5.3 2.7-2.3-2.2 1.3-2.6 2.5-4.4 5.7zM752.3 603.7l1.7-.7 1.7-.2 3.3 1.7 3.3 4.1 5.3 9.7 1 .6 1-.6 2.2-2-1.3 .4-1-.9-5.3-9.1-3.4-3.8-3-1.3-3.3 .8zM771.8 616.3l4.7-6 2.6-2.3-2.1 1.3-3 2.9-4.4 6.1zM777 609.3l2.9-.8 3 1.4 3.4 4 4.6 8.3 1 .9 1-.3 2.2-2-1 .2-1-.8-5-8.2-3-3.4-3-1.4-3 .8zM795.1 620.8l5.3-7.1 3-2.7-2.2 1.4-3.3 3.1-5 7.3zM801.2 612.4l3-.8 3 1.3 3.4 3.8 5 8.3 .9 .6 .7-.3 2.2-2.1-1 .2-1-.8-5-7.8-3-3.2-3-1.3-3 .7zM819.4 623.2l7.6-11.6 2.7-2.7 2.7-1.9-2.2 1.2-3 2.2-2.7 3-7.3 11.9zM830.2 608.2l3-1.2 3.6-.8 10-.2 2.2-1.2-10 .2-3.6 .8-3 1.2z"/><path transform="translate(3.2 -1.74)" d="M713.7 582l10.3 3.9 3.7 2.2 3.3 2.8 2.7 3.1 2.6 4.1 6.7 13.9 1 1 1-.3 2.2-1.8-1 .2-1-1-7-13.9-5.3-6.8-3.4-2.7-3.6-2.1-10-3.8zM747.2 610.9l5-6.4 2.6-2.2-2.1 1.3-3 2.7-4.7 6.4zM752.7 603.6l1.6-.6 1.7-.1 3.3 2 3.3 4.4 5 9.5 .7 .6 1-.3 2.2-1.9-1 .2-1-1-5-9-3.4-4.1-2.9-1.6-1.7 0-1.7 .6zM771.5 617.2l5-6.7 2.9-2.6-2.1 1.3-3 2.7-5 7.2zM777.3 609.2l3-.6 3 1.7 3 3.7 5 9.1 .9 .6 .7-.4 2.2-1.9-1 .3-1-.9-4.7-8.1-3-3.7-3-1.6-3 .5zM795.1 621.4l5.3-7.5 3-2.8-2.2 1.3-3.3 3.2-5 7.7zM801.2 612.4l3-.7 3.4 1.6 3.3 4 4.6 8.1 1 .7 .7-.3 2.2-1.9-.7 .3-1-.6-5-8.1-3.3-3.8-3-1.3-3 .7zM819.4 623.9l7.3-11.7 2.7-3 3-2.1-2.2 1.2-3 2.2-2.7 2.9-7.3 12.4zM830.2 608.3l3-1.3 3.6-.8 10-.2 2.2-1.2-10 .2-3.6 .8-3 1.3z"/><path transform="translate(1.6 -0.87)" d="M713.7 582l10.3 3.9 3.7 2.2 3.3 2.8 3 3.6 2.7 4.2 6.3 13.5 1 1.1 .7-.1 2.1-1.6-.6 .1-1-1.1-6.7-13.7-5.3-7.2-3.3-2.8-3.7-2.2-10.3-3.8zM746.8 611.6l5-6.5 3-2.7-2.1 1.2-3 2.7-5 6.9zM752.7 603.6l1.6-.6 1.7 0 3.3 1.9 3.3 4.5 5 9.6 .7 .7 1-.3 2.2-1.6-1 .2-.7-.6-5-9.3-3.3-4.4-3.3-2-1.7 .1-1.7 .6zM771.5 617.8l5-7.1 3-2.7-2.2 1.2-3.3 3.2-4.7 7zM777.3 609.2l3-.5 3 1.6 3.3 4.3 4.7 8.8 .6 .6 .7-.1 2.2-1.7-.7 .1-1-1-4.7-8.5-3-3.7-3-1.7-2.9 .6zM794.8 622.2l5.6-8.2 3-2.8-2.2 1.3-3.3 3.2-5.3 8.2zM801.2 612.5l3-.8 3.4 1.6 3.3 4.1 4.6 8.3 1.4 .6 2.1-1.6-1.3-.6-5-8.5-3-3.5-3.3-1.6-3 .7zM819 624.7l7.7-12.5 2.7-2.9 3-2.2-2.2 1.2-3 2.2-2.7 3-7.6 12.8zM830.2 608.3l3-1.3 3.6-.8 10-.2 2.2-1.1-10 .1-3.6 .8-3 1.3z"/><path transform="translate(0 -0)" d="M714.3 581.7l10.3 3.9 3.7 2.2 3.3 2.8 3 3.5 2.7 4.3 6.3 13.6 1 1.1 .6-.1 1.6-1-.6 .1-1-1.1-6.3-13.5-2.7-4.2-3-3.6-3.3-2.8-3.7-2.2-10.3-3.8zM746.8 612l5-6.9 3-2.7-1.6 .9-3 2.7-5 7zM753.2 603.3l1.7-.6 1.7 0 3.3 1.9 3.3 4.5 5 9.7 .7 .6 .6 0 1.6-1-1.3-.6-5-9.6-3.3-4.5-3.3-1.9-1.7 0-1.7 .6zM771.1 618.4l5.4-7.7 3-2.7-1.6 .9-3 2.7-5.4 7.8zM777.9 608.9l2.9-.5 3 1.6 3.4 4.3 4.6 8.8 .7 .6 .7-.1 1.6-1-.7 .1-1-1.1-4.3-8.2-3.4-4.3-3-1.6-2.9 .5zM794.8 622.6l5.6-8.5 3.3-3-1.6 .9-3.6 3.4-5.3 8.2zM802.1 612l3-.6 3.4 1.9 3 3.8 4.6 8.3 1.4 .7 1.6-1-1.4-.7-4.6-8.2-3-3.8-3.4-1.9-3 .6zM819.1 625.1l7.6-12.8 3-3.3 3-2.1-1.6 .9-3 2.1-3 3.3-7.6 12.9zM831.1 607.8l3-1.2 3.7-.8 9.6-.1 1.6-.8-9.7 0-3.6 .8-3 1.2z"/></g>
<g text-anchor="middle" font-size="10.2"><text x="713.8" y="669.8">20</text><text x="730.4" y="672.8">15</text><text x="747.1" y="675.8">10</text><text x="763.7" y="678.8">5</text><text x="780.3" y="681.8">0</text><text x="795.0" y="684.8">-5</text><text x="811.6" y="687.8">-10</text><text x="828.3" y="690.8">-15</text><text x="844.9" y="693.8">-20</text><text x="859.2" y="690.2">0</text><text x="872.0" y="683.2">1</text><text x="884.8" y="676.2">2</text><text x="897.5" y="669.3">3</text><text x="910.3" y="662.3">4</text><text x="923.1" y="655.3">5</text><text x="935.9" y="648.4">6</text></g>
<g text-anchor="middle" font-size="10.7"><text x="761.5" y="691.0">z</text><text x="920.0" y="674.0">ρ</text><text x="690.2" y="563.7" text-anchor="start">f(z,ρ)</text></g>
<g text-anchor="end" font-size="10.2"><text x="707.8" y="634.5">0.4</text><text x="707.8" y="614.7">0.6</text><text x="707.8" y="595.0">0.8</text><text x="707.8" y="575.3">1</text></g>
<!-- m -->
<g fill="none" stroke="#000" stroke-width=".55">
<path d="M67.1 830.9L225.4 860.5L315.9 809.7L157.6 780.1Z"/>
<path d="M86.1 834.4L87.5 833.6M176.6 783.6L175.1 784.5M116.2 840.1L117.6 839.2M206.7 789.3L205.2 790.1M146.2 845.7L147.7 844.9M236.7 794.9L235.3 795.7M176.3 851.3L177.8 850.5M266.8 800.5L265.4 801.4M206.4 857.0L207.9 856.1M296.9 806.2L295.5 807.0M240.5 852.0L237.1 851.4M82.2 822.4L85.5 823.1M255.6 843.6L252.2 842.9M97.3 814.0L100.6 814.6M270.6 835.1L267.3 834.5M112.3 805.5L115.7 806.1M285.7 826.6L282.4 826.0M127.4 797.0L130.8 797.7M300.8 818.2L297.5 817.5M142.5 788.6L145.9 789.2"/>
</g>
<g fill="none" stroke-width=".42">
<path d="M112.9 839.5l8.4-5.2 2.4-2.1 .1-.6-2.7 .6-3.3 1.3-9.8 5M130.8 842.8l8.4-5.2 2.2-1.8 .3-.9-3 .7-3.1 1.3-9.7 5M148.7 846.2l8.4-5.2 2.2-1.9 .4-.5-.2-.4-2.2 .5-3.8 1.6-9.7 4.9M166.6 849.5l8.1-5 2.9-2.6-.3-.3-1.3 .2-2.4 .9-11.9 5.9M184.5 852.9l8.4-5.2 2.1-1.7 .5-.8-.4-.2-1.5 .3-2.6 .9-11.4 5.7" stroke="#00c000" stroke-dasharray="2 1"/>
<path d="M114.3 839.7l7.3-4.3 6-3.9 3.4-2.9 .4-.7-.1-.4-2.2 .2-6.2 2.3-7.7 3.7-8.6 4.6M132.2 843.1l12-7.4 3.7-2.8 1.5-1.8-.3-.3-.8 0-1.5 .3-5.1 1.9-7.8 3.6-9.4 5M150.1 846.4l12.7-7.8 3.2-2.5 1.3-1.7-.3-.3-2.4 .4-5 1.8-8.6 4.1-8.6 4.6M168 849.8l12.7-7.8 3.4-2.8 1.1-1.5-1.5-.2-6.2 2.2-8.6 4-8.6 4.6M185.9 853.1l12.7-7.8 3.6-2.8 .7-1 .1-.5-.5-.2-2 .4-6 2.2-8.5 4.1-7.8 4.2" stroke="#0000ff" stroke-dasharray="1 2"/>
</g>
<g fill="none" stroke="#000" stroke-width=".6">
<path d="M67.5 830.9L67.5 728.6M67.5 796.5L71.0 796.5M67.5 779.5L71.0 779.5M67.5 762.5L71.0 762.5M67.5 745.5L71.0 745.5M67.5 728.5L71.0 728.5M225.5 860.5L225.5 826.0"/>
</g>
<linearGradient id="Pm" gradientUnits="userSpaceOnUse" x1="67.10" y1="796.40" x2="79.36" y2="730.85"><stop offset="0" stop-color="#ecdce6"/><stop offset="0.03" stop-color="#e2cdd9"/><stop offset="0.06" stop-color="#d4b9c6"/><stop offset="0.1" stop-color="#c3a0ac"/><stop offset="0.15" stop-color="#aa8087"/><stop offset="0.2" stop-color="#91625f"/><stop offset="0.25" stop-color="#7a463a"/><stop offset="0.29" stop-color="#642816"/><stop offset="0.334" stop-color="#46050a"/><stop offset="0.388" stop-color="#370050"/><stop offset="0.448" stop-color="#32008c"/><stop offset="0.51" stop-color="#3200be"/><stop offset="0.57" stop-color="#2d00e6"/><stop offset="0.645" stop-color="#1e00ff"/><stop offset="0.72" stop-color="#0058ff"/><stop offset="0.8" stop-color="#0096ff"/><stop offset="0.86" stop-color="#00cdff"/><stop offset="0.9" stop-color="#00ebff"/><stop offset="0.93" stop-color="#00ffff"/><stop offset="1" stop-color="#00ffff"/></linearGradient>
<g stroke-width=".6" stroke-linejoin="round" fill="url(#Pm)" stroke="url(#Pm)"><path d="M141.8 754.4l79.2 14.4 79.1 15.2 15.8-8.8-158.3-29.6z" fill="#ebdbe5" stroke="#ebdbe5"/><path d="M126.8 762.9l79.1 14.2 79.2 15.4 15.7-8.9-79.1-15.1-79.2-14.5z" fill="#ebdae4" stroke="#ebdae4"/><path d="M119.2 767.1l79.2 14.2 79.1 15.4 8.2-4.6-79.1-15.3-79.2-14.3z" fill="#ead9e4" stroke="#ead9e4"/><path transform="translate(52.79 -29.63)" d="M64.5 797.8l79.2 14.1 79.1 15.5 2.6-1.4-79.1-15.5-79.2-14.1z"/><path transform="translate(50.91 -28.57)" d="M64.5 797.8l79.2 14.1 79.1 15.5 2.6-1.4-79.2-15.5-79.1-14.1z"/><path transform="translate(49.02 -27.52)" d="M64.5 797.8l79.2 14 79.1 15.6 2.6-1.4-79.1-15.6-79.2-14z"/><path transform="translate(47.14 -26.46)" d="M64.5 797.8l79.2 13.9 79.1 15.7 2.6-1.4-79.2-15.6-79.1-14z"/><path transform="translate(45.25 -25.4)" d="M64.5 797.8l28.1 5.1 15.5 2.2 35.6 6.5 35.6 6.8 15.4 3.6 28.1 5.4 2.6-1.4-79.2-15.7-79.1-13.9z"/><path transform="translate(43.36 -24.34)" d="M64.5 797.8l28.9 5.2 14.7 1.9 26.9 5.3 8.7 1.2 8.7 2.1 26.9 4.7 14.7 3.6 28.8 5.6 2.6-1.4-27.7-5.4-15.8-3.6-35.6-6.8-35.7-6.5-15.8-2.3-27.7-5z"/><path transform="translate(41.48 -23.28)" d="M64.5 797.8l30.5 5.5 12.7 1.3 9.5 2.3 8.7 1 9.1 2.3 8.7 1 8.7 2.3 9.1 1 8.7 2.3 9.5 1.3 12.7 3.4 30.4 5.9 2.6-1.4-28.5-5.5-15-3.6-26.9-4.8-8.8-2-8.7-1.3-26.9-5.3-15-2-28.5-5.1z"/><path transform="translate(39.59 -22.22)" d="M64.5 797.8l32.1 5.7 6.3 .8 5.2 0 6.3 2 6.3 1.1 5.2 .1 4.7 1.7 6 1.3 7.1 .3 7.1 2.3 5.9 1 4.8 .1 5.1 1.8 6.4 1.3 6.3 .3 5.2 1.9 6.3 1.6 32 6.3 2.6-1.4-29.7-5.8-13.4-3.5-9.5-1.3-8.7-2.2-9.1-1.2-8.7-2.1-8.8-1.1-9.1-2.3-8.7-1-9.5-2.2-13.4-1.6-29.7-5.3z"/><path transform="translate(37.71 -21.17)" d="M64.5 797.8l34.1 6 4.3 .4 5.2-.5 5.9 2.5 6.7 1.2 5.2-.5 4.7 2.3 6 1.2 2.7 .3 4.4-.4 4.3 2 2.8 .8 5.9 .9 4.8-.4 5.1 2.3 6.8 1.4 5.9-.3 5.1 2.5 4.4 1.2 34 6.7 2.6-1.4-31.3-6.1-6.7-1.7-5.5-1.9-6.4-.4-6.3-1.3-5.1-1.7-5.2-.2-5.5-1-7.2-2.2-7.1-.5-5.5-1.1-5.2-1.7-5.1-.2-6.3-1.1-6.4-1.9-5.5-.1-6.7-.9-31.3-5.6z"/><path transform="translate(35.82 -20.11)" d="M64.5 797.8l32.1 5.7 5.5 .6 2.8-.4 2.6-1-3.2 0-7.1-.9-30.1-5.4zM107.5 802.7l1.9-.3-2.5 .5-2 .8zM106.9 802.9l1.6 .1 3.5 2.4 2.4 .9 5.9 1 2.8-.6 2.6-.9-2.8 .1-5.5-.9-8-2.6zM125.7 805.8l1.6-.2-2.6 .5-1.6 .6zM124.7 806.1l1.6 .1 3.5 2.5 2.4 .8 5.9 1.1 2.8-.5 2.6-.9-2.8 0-5.5-.9-6.4-2.5-1.5-.2zM143.5 809.2l2-.2-2.6 .4-2 .7zM142.9 809.4l1.6 .3 3.1 2.2 2.4 1 6 1 2.7-.4 2.6-.9-2.8 0-5.5-1-7.5-2.6zM161.3 812.6l2-.3-2.6 .5-2 .7zM160.7 812.8l1.6 .2 3.2 2.3 2.3 .9 6 1.1 2.7-.3 2.6-1-2.8 0-5.5-1.1-7.5-2.6zM179.1 816l2-.2-2.6 .5-2 .7zM178.5 816.3l1.6 .2 4 2.7 3.5 1.1 35.2 7.1 2.6-1.4-32.4-6.4-5.6-1.4-4.7-2.2-1.6-.2z"/><path transform="translate(33.94 -19.05)" d="M64.5 797.8l31.3 5.6 5.9 .7 2.4-.5 2.6-1-2.8 .1-7.1-1-29.7-5.3zM106.7 802.6l3.5-.9-2.5 0-3.6 1.9zM107.7 801.7l5.9 4.3 5.5 1.1 2.8-.3 2.6-1-2.8-.1-5.5-1-6-3zM124.5 805.8l3.5-.9-2.5 0-3.6 1.9zM125.5 804.9l1.2 .4 2.7 2.8 2 1.1 5.6 1.2 2.7-.2 2.6-1.1-2.8-.1-5.5-1.1-6-3zM142.3 809.1l3.6-.8-2.6-.1-3.6 2zM143.3 808.2l1.2 .4 3.1 3.1 2 1 5.6 1.1 2.7-.4 2.6-1-2.8 0-5.5-1.1-6.3-3zM160.5 812.4l3.6-.7-2.6-.1-3.6 1.8zM161.5 811.6l1.2 .6 2.7 2.8 2 1 5.6 1.2 2.7-.3 2.6-1-2.8-.1-5.5-1.1-5.9-3zM178.3 815.9l3.6-.8-2.6 0-3.6 1.8zM179.3 815.1l1.2 .5 3.2 3.1 2.7 1.3 36.4 7.4 2.6-1.4-35.2-7.1-3.6-1.1-4.7-2.7z"/><path transform="translate(32.05 -17.99)" d="M64.5 797.8l30.1 5.4 6.3 .8 2.4-.3 2.6-1.2-9.9-.9-28.9-5.2zM105.9 802.5l3.5-1.7 1.2 0-2.5-.6-1.2 .2-3.6 3.3zM108.1 800.2l3.5 4.3 1.6 1.2 5.2 1.3 2.7-.2 2.6-1.1-3.2-.2-4.7-1.1-5.2-3.6zM123.7 805.7l3.6-1.6 1.1-.1-2.5-.6-1.2 .3-3.6 3.1zM125.9 803.4l1.2 .9 2.7 3.7 1.6 1.1 5.2 1.2 2.7-.3 2.6-1-2.8-.1-5.1-1.1-5.6-3.8zM141.9 809l4.4-1.7-2.6-.6-1.2 .4-3.2 2.9zM143.7 806.7l1.2 .8 2.7 3.8 1.6 1.1 5.2 1.2 2.7-.2 2.6-1.1-2.8 0-5.1-1.2-5.5-3.8zM159.7 812.3l4.4-1.7-2.6-.6-1.2 .5-3.2 2.9zM161.5 810l1.2 .8 2.8 3.7 1.5 1.3 5.2 1.2 2.8-.1 2.5-1.1-2.8-.2-5.1-1.1-5.5-3.9zM177.5 815.8l3.6-1.6 1.2 0-2.6-.6-1.2 .1-3.5 3.2zM179.7 813.6l4 4.8 2.7 1.6 11.1 2.5 25.3 4.9 2.6-1.4-36-7.3-3.2-1.3-3.9-3.2z"/><path transform="translate(30.17 -16.93)" d="M64.5 797.8l30.1 5.4 5.9 .7 2.4-.3 2.6-1.1-9.5-.9-28.9-5.2zM105.5 802.5l3.9-3 1.2-.2-2.5-1.2-1.2 .3-2.4 3.7-1.6 1.5zM108.1 798.1l1.2 1.3 2.3 4.5 1.6 1.6 4.4 1.3 3.1 0 2.6-1.2-3.2-.2-4.3-1.1-5.2-5zM123.3 805.6l1.6-.7 2.4-2.1 1.1-.3-2.5-1.3-1.2 .6-2.4 3.6-1.6 1.4zM125.9 801.2l1.2 1.3 2.7 5.1 1.2 1.2 4 1.2 3.5 .1 2.6-1.2-3.6-.3-3.9-1-5.2-5.1zM141.1 808.9l1.6-.6 2.8-2.3 1.1 0-2.5-1.3-1.2 .1-2.8 4-1.6 1.3zM144.1 804.7l3.1 5.5 1.6 1.8 4.8 1.5 3.1-.2 2.6-1.1-3.6-.2-4.3-1.1-4.8-4.9zM159.3 812.2l4-2.8 1.2-.1-2.6-1.3-1.2 .2-2.8 4.1-1.2 1zM161.9 808l3.5 6 1.6 1.6 4.8 1.3 2.8-.1 2.5-1.1-3.2-.2-4.3-1.1-1.6-1.1-3.5-4zM177.1 815.7l4-2.8 1.2-.2-2.6-1.2-1.2 .3-2.8 4.1-1.1 .9zM179.7 811.5l1.2 1.3 2.8 5.2 2.3 1.8 10.7 2.6 26.1 5 2.6-1.4-36.4-7.5-2.8-1.4-3.9-4.4z"/><path transform="translate(28.28 -15.87)" d="M64.5 797.8l29.7 5.3 6.4 .8 1.9-.3 2.6-1.2-9.5-.9-28.5-5.1zM105.1 802.4l1.6-1 2.7-3.6 1.2-.4-2.5-2.1-1.2 .6-2.8 5.9-1.6 1.8zM108.1 795.3l1.2 1.8 2.3 6 1.6 2.2 3.2 1.3 3.9 .1 2.6-1.2-3.6-.3-3.5-1-1.6-1.5-2.4-4.1-1.2-1.2zM122.9 805.5l1.6-.9 2.8-3.5 .7-.5 .8 .2-2.5-2-.8-.3-.8 .8-2.8 5.8-1.6 1.6zM126.3 798.8l3.1 7.4 1.6 2.3 2.8 1.3 4.3 .3 2.6-1.3-3.9-.4-3.2-1-1.6-1.6-3.2-5zM140.7 808.8l1.6-.8 3.2-3.9 1.1 0-2.5-2.1-1.2 .2-3.2 6.4-1.6 1.5zM144.1 802l3.5 8.1 1.2 1.7 3.6 1.5 2.4 .3 1.6-.3 2.5-1.2-3.9-.2-3.6-1.2-4.8-6.6zM158.9 812.1l1.6-1 2.8-3.5 1.2-.2-2.6-2.1-1.2 .4-2.8 5.8-1.5 1.8zM161.9 805.3l4.7 9.8 3.2 1.4 2.8 .5 1.6-.3 2.5-1.1-4.3-.5-3.2-1.1-4.7-6.6zM176.7 815.6l1.6-1 2.8-3.5 1.2-.3-2.6-2.1-1.2 .6-2.8 5.8-1.5 1.6zM179.7 808.7l1.2 1.8 2.8 6.9 2.3 2.3 10.3 2.6 26.5 5.1 2.6-1.4-26.1-5.1-10.7-2.5-2.4-1.7-3.9-5.9z"/><path transform="translate(26.4 -14.82)" d="M64.5 797.8l29.3 5.3 6.3 .7 2-.2 2.6-1.2-9.5-1-28.1-5zM104.7 802.4l2-1.7 2.7-5.2 .8-.6 .8 .4-2.5-2.9-.8-.5-.8 1-2.8 8-2 2.7zM108.5 792.4l3.1 9.7 1.6 3 2.4 1.3 4.3 .3 2.6-1.3-4-.3-2.7-1.1-1.6-2-3.2-6.7zM122.5 805.4l2-1.4 3.1-5.6 1.2 0-2.5-2.9-.8-.3-.8 1.1-2.8 7.9-2 2.5zM126.3 795.5l3.1 9.6 1.6 3.1 2.8 1.5 2.8 .5 1.5-.4 2.6-1.1-4-.3-3.1-1.2-1.6-2.2-3.2-6.6zM140.7 808.7l1.6-1.3 3.2-5.6 1.1-.2-2.5-2.9-.4-.2-.8 .5-3.2 8.8-1.6 2zM144.1 798.7l3.5 10.6 1.2 2.2 2.8 1.6 2.8 .4 1.5-.3 2.6-1.1-4.3-.4-2.8-1.3-1.2-1.5-3.6-7.3zM158.5 812.1l2-1.7 2.8-5.1 1.2-.4-2.6-2.9-.4-.2-.8 .8-2.8 7.9-2 2.7zM161.9 802l4.7 12.7 2.4 1.6 3.2 .6 1.6-.2 2.5-1.2-4.7-.6-2.4-1.2-4.7-8.8zM176.3 815.5l2-1.6 2.8-5.1 .8-.5 .8 .4-2.6-2.9-.8-.5-.8 .9-2.8 7.9-1.9 2.6zM180.1 805.8l3.6 10.9 1.1 2 1.2 1 9.9 2.5 26.9 5.2 2.6-1.4-26.5-5.1-10.3-2.6-2.4-2.1-3.5-7.5z"/><path transform="translate(24.51 -13.76)" d="M64.5 797.8l28.9 5.2 6.4 .8 1.9-.2 2.6-1.3-9.5-.9-27.7-5zM104.3 802.3l2-1.7 3.1-8 .8-.8 .8 .4-2.5-3.7-.8-.6-.8 1.2-3.2 11.7-.8 1.7-1.2 1.1zM108.5 788.5l3.1 12.4 1.6 3.9 2.4 1.5 2.8 .5 1.5-.3 2.6-1.2-4.3-.4-2.4-1.2-1.6-2.6-3.2-8.9zM122.5 805.3l2-2.2 3.2-7.7 .7-.4 .4 .3-2.5-3.7-.8-.4-.8 1.4-2.8 10.5-.8 2-1.2 1.4zM126.3 791.6l3.1 12.2 1.6 4.1 2.4 1.7 2.8 .5 1.6-.3 2.5-1.2-4.3-.4-2.4-1.3-1.6-2.8-3.2-8.8zM140.3 808.6l2-1.9 3.2-7.9 .8-.5 .3 .3-2.5-3.9-.4-.3-.8 .8-3.2 11.5-.8 1.9-1.1 1.2zM144.1 794.7l3.5 13.5 1.2 2.9 2.4 1.8 2.8 .5 1.6-.2 2.5-1.2-4.3-.5-2.4-1.3-1.2-2.1-3.6-9.5zM158.1 812l2-1.8 3.2-7.9 1.2-.5-2.6-3.8-.4-.2-.8 1-3.2 11.6-.8 1.7-1.1 1.1zM161.9 798l4.7 16.3 1.2 1.4 1.2 .6 4.4 .4 2.5-1.2-4.3-.6-2.4-1.5-4.7-11.6zM175.9 815.5l2-1.7 3.2-7.8 .8-.8 .8 .5-2.6-3.8-.8-.6-.8 1.2-3.2 11.6-.7 1.6-1.2 1zM180.1 801.9l3.6 13.9 1.1 2.6 1.2 1.2 9.1 2.4 27.7 5.4 2.6-1.4-26.9-5.2-9.9-2.6-1.2-.8-1.2-1.9-3.5-9.8z"/><path transform="translate(22.62 -12.7)" d="M64.5 797.8l29.3 5.2 6 .8 1.9-.4 2.6-1.2-2 .2-6.7-.9-28.5-5.1zM104.3 802.2l1.2-1 .8-1.5 3.2-10.6 .7-1.1 .8 .5-2.5-4.5-.8-.7-.8 1.5-3.2 15-.8 2.1-1.2 1.5zM108.5 784l3.1 15.5 1.6 4.9 2 1.7 2.8 .6 1.6-.2 2.5-1.2-4.7-.7-2-1.8-4.4-14.3zM122.1 805.3l1.2-.9 .8-1.3 3.6-11.4 .7-.5 .4 .4-2.5-4.6-.4-.5-.8 .7-3.6 16-.8 2-1.1 1.3zM126.3 787l3.1 15.3 1.6 5.2 2 1.9 2.8 .6 1.6-.1 2.5-1.3-4.3-.6-2-1.4-1.6-3.7-3.2-11.3zM139.9 808.6l1.2-.7 .8-1.3 3.2-10.5 .8-1.4 .8 .1-2.6-4.6-.4-.4-.8 1-3.2 14.7-1.2 3.2-1.1 1.2zM144.1 790.2l1.2 4.1 2.3 12.7 1.2 3.6 2 2.1 2.8 .7 1.6-.1 2.5-1.3-4.3-.6-2-1.6-1.2-2.6-3.5-12.4zM157.7 812l1.2-.7 .8-1.1 3.2-10.4 .8-1.7 .8 0-2.6-4.7-.8 .1-.8 2.3-3.2 14.7-.7 1.7-1.2 1.1zM161.9 793.4l4.7 20.4 1.2 1.7 1.2 .7 2.8 .6 1.6-.3 2.5-1.2-4.3-.5-2.4-1.8-4.7-14.9zM175.9 815.3l1.2-.9 .8-1.4 3.2-10.6 .8-1 .8 .6-2.6-4.6-.8-.7-.8 1.5-3.1 14.8-.8 2.1-1.2 1.4zM180.1 797.4l3.6 17.3 1.1 3.3 1.2 1.4 8.7 2.6 28.1 5.4 2.6-1.4-27.3-5.3-9.5-2.5-1.2-1.1-1.2-2.4-3.5-12.7z"/><path transform="translate(20.74 -11.64)" d="M64.5 797.8l28.5 5.1 6.4 .8 1.9-.2 2.6-1.3-9.1-.8-27.7-5zM103.9 802.2l1.2-.9 1.2-2.6 3.1-13.7 .8-1.4 .8 .6-2.5-5.2-.8-.8-.8 1.8-3.2 18.5-1.2 3.7-1.2 1.3zM108.5 779l3.1 18.9 1.6 6 2 2.2 3.9 .4 2.6-1.2-4.3-.7-2-2.3-4.4-18.1zM121.7 805.3l1.2-.8 .8-1.3 3.6-14.7 .7-1.6 .8 .4-2.5-5.4-.4-.5-.8 .8-3.6 19.9-1.2 3.3-1.2 1.1zM126.3 781.9l3.5 20.8 1.2 4.3 .8 1.4 1.2 .9 2.8 .7 1.6-.3 2.5-1.2-4.3-.5-2-1.8-1.6-4.7-3.2-14.2zM139.9 808.5l1.2-1.1 1.2-2.9 3.2-13.5 .7-.9 .4 .3-2.5-5.3-.4-.5-.8 1.3-3.6 19.9-.8 2.3-1.1 1.6zM144.1 785.1l1.2 4.9 2.3 15.5 1.2 4.6 .8 1.5 1.2 1 2.8 .7 1.6-.2 2.5-1.2-4.3-.6-2-2-1.2-3.3-3.6-15.6zM157.7 811.9l1.2-1 .8-1.5 3.2-13.5 .8-2.1 .8-.1-2.6-5.4-.4-.3-.4 .5-.8 2.7-3.2 18.3-.8 2.2-1.1 1.4zM161.9 788.3l.8 2.4 2.8 17.7 1.1 4.8 .8 1.6 1.2 1.2 2.4 .7 2-.1 2.5-1.3-4.3-.7-2-2.1-4.7-18.8zM175.5 815.3l1.2-.8 1.2-2.6 3.2-13.6 .8-1.3 .8 .7-2.6-5.3-.8-.9-.8 1.9-3.2 18.3-1.1 3.6-1.2 1.3zM180.1 792.4l3.6 21.1 1.1 4.1 1.2 1.7 2 1 6.3 1.6 28.5 5.5 2.6-1.4-27.7-5.4-9.1-2.6-1.2-1.3-1.2-3-3.5-16z"/><path transform="translate(18.85 -10.58)" d="M64.5 797.8l27.7 5 8.7 .8 2.6-1.4-9.1-.9-27.3-4.9zM103.5 802.2l1.2-.7 1.2-2.5 3.5-18.6 .8-1.8 .8 .8-2.5-5.8-.8-.9-.8 2.2-3.2 22.3-1.2 4.5-1.6 1.9zM108.5 773.6l3.1 22.4 1.6 7.4 .8 1.6 1.2 1 2.4 .6 1.6-.2 2.5-1.3-2 .1-2.3-.7-1.2-1.2-.8-1.6-4.4-22.3zM121.7 805.1l1.2-1 .8-1.7 3.6-18.5 .7-2 .8 .5-2.5-5.9-.4-.6-.4 .1-.8 2.6-3.2 22.2-1.2 4.1-1.1 1.5zM126.3 776.5l3.5 24.7 1.2 5.2 .8 1.7 1.2 1.2 2.4 .6 1.6-.1 2.5-1.3-3.9-.6-2-2.2-1.2-4-3.6-19.3zM139.5 808.5l1.2-.9 1.2-2.9 3.2-17 .8-2.3 .4-.3 .3 .4-2.5-5.9-.4-.4-.4 .3-.8 2.9-3.6 23.9-.8 2.2-1.1 1.3zM144.1 779.6l1.2 5.8 2.3 18.5 1.2 5.6 .8 1.8 1.2 1.3 2.4 .6 1.6 0 2.5-1.3-3.9-.7-2-2.4-1.2-4.2-2.4-14.4-1.2-4.7zM157.3 811.9l1.2-.8 1.2-2.7 3.2-16.9 .8-2.6 .4-.4 .4 .2-2.6-5.9-.4-.3-.4 .6-.8 3.2-3.2 22.1-1.1 3.6-1.2 1.2zM161.9 782.8l1.2 5.3 2.4 18.6 1.1 5.8 .8 2 1.2 1.4 2.8 .8 1.6-.3 2.5-1.2-1.9 0-2.4-.6-1.2-1.1-.8-1.5-1.2-4.5-2.7-16.4-.8-2.4zM175.5 815.2l1.2-1.2 1.2-3.2 3.2-17.1 .8-1.7 .8 .8-2.6-5.8-.8-.9-1.2 4.3-2.7 19.9-1.2 4.5-1.2 1.6zM180.1 787l3.6 25.1 1.1 5 1.2 2.1 2 1.1 5.6 1.4 29.2 5.7 2.6-1.4-28.5-5.6-6.3-1.5-2-1-1.2-1.6-1.2-3.8-3.5-19.7z"/><path transform="translate(16.97 -9.52)" d="M64.5 797.8l28.1 5 6.4 .9 1.9-.2 2.6-1.4-8.7-.8-27.7-4.9zM103.5 802.1l1.2-1 1.2-3.1 3.1-20.6 .8-3.5 .8-.6-2.5-6.2-.4 0-.4 .8-.8 4.2-3.2 25.9-1.2 4.1-1.2 1.4zM108.1 767.1l1.2 5.4 2.3 21.6 1.6 8.8 .8 1.9 1.2 1.2 2.4 .6 1.5-.3 2.6-1.3-1.6 .2-2.3-.6-1.2-1-.8-1.4-1.6-6.9-2.4-17.5-1.2-4.5zM121.7 805l1.2-1.3 1.2-3.9 3.5-22.4 .8-1 .4 .7-2.5-6.1-.4-.7-.4 .1-.8 3-3.2 26-1.2 5.1-1.2 1.8zM126.3 771l3.5 28.6 1.2 6.2 .8 2.1 1.2 1.3 2.4 .7 1.6-.3 2.5-1.2-1.6 .1-2.3-.6-1.2-1.1-.8-1.6-1.2-4.9-3.6-23.2zM139.5 808.4l1.2-1.2 1.2-3.6 3.2-20.8 .8-2.8 .3-.3 .4 .5-2.5-6.1-.4-.6-.4 .4-.8 3.4-3.6 28-.8 2.7-1.1 1.6zM144.1 774.1l4.7 34.7 .8 2.2 1.2 1.5 2.4 .7 1.6-.2 2.5-1.2-3.9-.7-1.2-1.1-.8-1.8-1.2-5.1-2.4-17.4-1.2-5.5zM157.3 811.8l1.2-1.1 1.2-3.4 3.2-20.6 .8-3.1 .4-.5 .4 .3-2.6-6.2-.4-.3-.4 .6-.8 3.8-3.2 25.9-1.1 4.4-1.2 1.4zM161.9 777.2l1.2 6 2.4 21.7 1.1 6.9 .8 2.4 1.2 1.6 2 .7 2 0 2.5-1.3-3.9-.7-1.2-1.3-.8-1.9-1.2-5.4-2.4-17.5-1.1-5zM175.1 815.2l1.2-.9 1.2-3.1 3.2-20.5 .8-3.4 .4-.7 .4 .1-2.6-6.1-.4-.1-.4 .8-.8 4.1-3.2 25.7-1.1 4.1-1.2 1.3zM179.7 780.6l1.2 5.4 3.2 27.1 .7 3.4 1.2 2.5 1.6 1.1 5.6 1.5 29.6 5.8 2.6-1.4-28.9-5.7-5.9-1.5-2-1-1.2-2-1.2-4.6-2.8-19.9-1.1-4.6z"/><path transform="translate(15.08 -8.47)" d="M64.5 797.8l28.5 5.1 6 .8 1.9-.3 2.6-1.3-2 .1-6.3-.8-28.1-5zM103.5 802.1l1.2-1.3 1.2-3.9 3.2-24.4 .7-4 .4-.8 .4 0-2.5-6-.4-.1-.4 1-.8 4.6-3.2 29.6-1.2 4.9-1.2 1.7zM108.1 761.7l1.2 5.9 2.3 24.5 1.6 10.2 .8 2.2 1.2 1.4 2 .6 1.6-.1 2.5-1.3-3.5-.5-1.2-1.2-.8-1.8-1.6-8.2-2.4-20.5-1.2-5.2zM121.3 805.1l1.2-1.1 1.2-3.5 3.6-26.7 .7-2.8 .4-.2 .4 .8-2.5-6-.4-.8-.4 .2-.8 3.2-3.6 32.3-1.2 4.5-1.1 1.4zM126.3 765.6l1.2 7.9 2.3 24.5 1.2 7.2 .8 2.4 1.2 1.5 2 .7 1.6-.1 2.5-1.3-3.5-.6-1.2-1.3-.8-1.9-1.2-5.8-3.6-27.2zM139.1 808.4l1.2-.9 1.2-3.3 3.6-26.5 .8-3.2 .4-.4 .3 .5-2.5-6-.4-.5-.4 .4-.8 3.7-3.6 32.2-1.1 4.1-1.2 1.2zM144.1 768.6l1.2 7.3 2.3 24.6 1.2 7.6 .8 2.6 1.2 1.7 2.4 .8 1.6-.3 2.5-1.2-1.5 .1-2.4-.7-1.2-1.4-.8-2.1-4.8-33zM157.3 811.7l1.2-1.4 1.2-4.1 3.2-24.5 .8-3.6 .4-.6 .4 .3-2.6-6-.4-.4-.4 .7-.8 4.2-3.2 29.7-1.1 5.2-1.2 1.7zM161.9 771.8l1.2 6.6 2.4 24.6 1.1 8.1 .8 2.8 1.2 1.8 2 .8 2-.1 2.5-1.3-1.9 0-2-.7-1.2-1.5-.8-2.3-1.2-6.5-2.4-20.5-1.1-5.8zM175.1 815.1l1.2-1.2 1.2-3.8 3.2-24.3 .8-4 .4-.8 .4 .1-2.6-6-.4-.1-.4 .9-.8 4.6-3.1 29.5-1.2 4.8-1.2 1.6zM179.7 775.1l1.2 6 3.2 30.8 .7 4.1 1.2 2.9 1.6 1.2 5.2 1.4 30 5.9 2.6-1.4-29.3-5.8-5.5-1.4-2-1.1-1.2-2.4-.8-3.3-3.1-25.6-1.2-5.3z"/><path transform="translate(13.2 -7.41)" d="M64.5 797.8l27.7 5 8.3 .7 2.6-1.4-8.7-.8-27.3-4.9zM103.1 802.1l1.6-1.7 1.2-4.6 3.1-28.3 .8-4.5 .4-.9 .4 .1-2.5-5.6-.4-.1-.4 1-.8 5-3.2 33.2-1.2 5.7-1.6 2.1zM108.1 756.6l1.2 6.4 2.3 27.2 1.6 11.5 .8 2.6 1.2 1.5 2 .7 1.6-.2 2.5-1.3-1.6 .1-1.9-.6-1.2-1.3-.8-2.1-1.6-9.7-2.4-23.5-1.2-5.7zM121.3 805l1.2-1.3 1.2-4.3 3.2-28 .7-4.8 .8-1.3-2.5-5.6-.8 1.4-.8 5.5-3.2 32.9-1.2 5.1-1.1 1.7zM125.9 759.7l1.2 5.6 2.7 31 1.2 8.3 .8 2.7 1.2 1.8 2 .7 1.6-.1 2.5-1.4-1.6 .1-1.9-.7-1.2-1.4-.8-2.3-1.6-10.2-2.4-23.4-1.2-5.1zM139.1 808.3l1.2-1.1 1.2-3.9 3.6-30.7 .8-3.6 .3-.4 .4 .5-2.5-5.5-.4-.6-.4 .4-.8 4-3.6 36-1.2 4.8-1.1 1.5zM144.1 763.6l1.2 7.8 2.3 27.4 1.2 8.6 .8 3 1.2 1.9 1.6 .7 2 .1 2.5-1.4-1.9-.1-1.6-.6-1.2-1.6-.8-2.5-1.2-7.2-2.4-23.5-1.2-7.1zM156.9 811.7l1.2-1 1.2-3.6 3.6-30.5 .8-4 .4-.7 .4 .4-2.6-5.6-.4-.4-.4 .8-.8 4.5-3.6 35.7-1.1 4.5-1.2 1.3zM161.9 766.7l1.2 7.1 2.4 27.4 1.5 11 .8 2.3 1.2 1.4 2 .7 1.6-.3 2.5-1.3-1.9 .1-2-.8-1.2-1.7-.8-2.7-1.2-7.6-2.4-23.6-1.1-6.4zM175.1 815l1.2-1.5 1.2-4.5 3.2-28.2 .8-4.4 .4-.9 .4 .1-2.6-5.6-.4-.1-.4 1-.8 4.9-3.2 33.1-1.1 5.6-1.2 1.8zM179.7 770l1.2 6.5 3.2 34.3 .7 4.6 1.2 3.3 1.6 1.4 4.8 1.3 30.4 6 2.6-1.4-30.1-5.9-5.1-1.4-1.6-1.2-1.2-2.8-.8-3.8-3.2-29.5-1.1-5.8z"/><path transform="translate(11.31 -6.35)" d="M64.5 797.8l27.7 5 6.4 .8 2-.2 2.5-1.3-8.7-.8-27.3-4.9zM103.1 802.1l1.6-2 1.2-5.4 3.2-32 .7-4.9 .4-.9 .4 0-2.5-4.8-.4 0-.4 1-.8 5.3-3.6 39-1.2 4.7-1.1 1.3zM108.1 752.1l1.2 6.7 2.3 29.5 1.6 12.9 .8 2.8 1.2 1.8 2 .7 1.6-.3 2.5-1.3-1.6 .2-1.9-.7-1.2-1.5-.8-2.4-1.6-11.1-2.4-26.2-1.2-6.3zM121.3 804.9l1.2-1.6 1.2-4.9 3.2-31.7 .8-5.3 .7-1.4-2.5-4.8-.8 1.5-.8 5.8-3.2 36-1.2 5.8-1.1 1.9zM125.9 755.2l1.2 5.9 2.7 33.7 1.2 9.2 .8 3.1 1.2 1.9 2 .8 1.6-.2 2.5-1.4-1.6 .2-1.9-.8-1.2-1.6-.8-2.6-1.2-7.9-2.8-29.9-1.2-5.6zM139.1 808.2l1.2-1.3 1.2-4.6 3.6-34.6 .8-3.9 .4-.5 .3 .6-2.5-4.8-.4-.6-.4 .5-.8 4.2-3.6 39.3-1.1 5.4-1.2 1.7zM144.1 759.1l1.2 8.2 2.3 29.8 1.2 9.7 .8 3.3 1.2 2.1 1.6 .8 2 0 2.5-1.4-1.9 0-1.6-.7-1.2-1.8-.8-2.9-1.2-8.3-2.4-26.3-1.2-7.7zM156.9 811.6l1.2-1.2 1.2-4.2 3.6-34.4 .8-4.4 .4-.7 .4 .3-2.6-4.8-.4-.3-.4 .7-.8 4.7-3.6 39.2-1.1 5-1.2 1.5zM161.9 762.2l1.2 7.5 3.5 39.9 .8 3.6 1.2 2.3 1.6 .9 2 0 2.5-1.3-1.9-.1-1.6-.8-1.2-2-.8-3.1-3.6-35.1-1.1-7zM174.7 815.1l1.6-1.9 1.2-5.4 3.2-31.8 .8-4.8 .4-1 .4 .1-2.6-4.8-.4-.1-.4 1.1-.8 5.2-3.5 38.8-1.2 4.6-1.2 1.3zM179.7 765.5l1.2 6.8 3.2 37.4 1.1 6.8 1.2 2.7 1.6 1 5.6 1.5 29.2 5.7 2.6-1.4-30.5-6-4.7-1.4-1.6-1.3-1.2-3.1-.8-4.4-3.1-33.2-1.2-6.3z"/><path transform="translate(9.43 -5.29)" d="M64.5 797.8l28.1 5 6 .8 1.9-.2 2.6-1.4-2 .2-6.3-.9-27.7-4.9zM103.1 802l1.2-1.3 1.2-4.5 3.5-37.8 .8-5.2 .4-1.1 .4 .1-2.5-3.7-.4-.1-.4 1.1-.8 5.3-3.6 41.9-1.2 5.1-1.2 1.6zM108.1 748.5l1.2 6.8 2.7 36 1.2 9.4 1.6 4.6 1.6 1 2 .1 2.5-1.4-2-.1-1.5-.9-1.6-4.1-1.6-12.4-2.4-28.7-1.2-6.6zM120.9 805l1.6-2 1.2-5.6 3.2-35 .7-5.6 .8-1.5-2.5-3.7-.8 1.5-.8 5.9-3.2 38.6-1.2 6.4-.8 1.7-.7 .7zM125.9 751.6l1.2 6 2.7 35.9 1.2 10 .8 3.3 1.2 2.1 2 .8 1.6-.2 2.5-1.3-1.6 .1-1.9-.7-1.2-1.9-.8-3-1.2-8.8-2.8-32.8-1.2-5.8zM139.1 808.2l1.2-1.6 1.2-5.2 3.2-34.7 .8-6.1 .7-2-2.5-3.8-.8 2.1-.8 6.4-3.2 38.4-1.2 5.9-1.1 1.9zM143.7 754.8l.8 2.4 .8 6.7 2.3 31.8 1.2 10.5 .8 3.7 1.2 2.3 1.6 .8 2-.1 2.5-1.3-1.9 0-1.6-.8-1.2-2-.8-3.2-1.2-9.3-2.8-32.7-1.2-5zM156.9 811.6l1.2-1.5 1.2-4.8 3.6-38 .8-4.6 .4-.7 .4 .3-2.6-3.7-.4-.4-.4 .8-.8 4.8-3.6 41.9-1.1 5.6-1.2 1.6zM161.9 758.6l1.2 7.6 2.3 31.7 1.6 13.3 1.6 4.3 1.6 .9 2 0 2.5-1.4-1.9 0-1.6-.9-1.2-2.2-.8-3.5-3.6-38.7-1.1-7.4zM174.7 815l1.2-1.2 1.2-4.5 3.6-37.6 .8-5.2 .4-1 .4 .1-2.6-3.7-.4-.1-.4 1-.8 5.3-3.5 41.7-1.2 5.1-1.2 1.5zM179.7 761.9l1.2 6.9 3.1 40 1.2 7.4 1.2 2.9 1.6 1.1 5.2 1.4 29.6 5.8 2.6-1.4-29.3-5.8-5.5-1.4-1.6-1-1.2-2.6-1.2-6.5-3.2-36.4-1.1-6.7z"/><path transform="translate(7.54 -4.23)" d="M64.5 797.8l28.1 5 6 .8 2-.3 2.5-1.3-2 .2-5.9-.8-28.1-5zM103.1 802l1.2-1.5 1.2-5 3.6-40.9 .7-5.4 .4-1 .4 0-2.5-2.4-.4-.1-.4 1-.8 5.4-3.6 44-1.2 5.6-1.1 1.6zM108.1 745.8l1.2 6.7 2.7 37.7 1.2 10.1 1.6 4.9 1.6 1.1 2 0 2.5-1.4-2 0-1.5-1-1.6-4.5-1.2-9.1-2.8-35.3-1.2-6.8zM120.9 804.9l.8-.6 .8-1.6 1.2-6.3 3.2-37.7 .8-5.9 .7-1.5-2.5-2.4-.8 1.4-.8 5.9-3.2 40.7-1.2 6.9-.7 1.8-.8 .7zM125.9 748.9l1.2 5.9 2.7 37.6 1.2 10.6 .8 3.6 1.2 2.3 2 .8 1.6-.2 2.5-1.4-1.6 .2-1.9-.8-1.2-2-.8-3.3-1.2-9.7-2.8-35.2-1.2-6zM139.1 808.1l1.2-1.8 1.2-5.8 3.2-37.5 .8-6.3 .8-2.1-2.6-2.5-.8 2-.8 6.5-3.2 40.4-1.1 6.4-1.2 2.1zM143.7 752.1l.8 2.3 .8 6.8 2.3 33.3 1.6 13.5 1.6 4.1 1.6 .9 2-.1 2.5-1.4-1.9 .1-1.6-.8-1.2-2.3-.8-3.5-1.2-10.3-2.4-31.1-.8-6.6-.7-2.4zM156.9 811.5l1.2-1.6 1.2-5.4 3.6-41 .8-4.8 .4-.7 .4 .3-2.6-2.4-.4-.4-.4 .7-.8 4.8-3.6 44.1-1.1 6-1.2 1.8zM161.9 755.9l1.2 7.6 2.4 33.2 1.5 14.2 1.6 4.5 1.6 1 2-.1 2.5-1.3-1.9-.1-1.6-.9-1.6-4.1-1.6-12.9-2.4-31-1.1-7.7zM174.7 815l1.2-1.5 1.2-4.9 3.6-40.7 .8-5.3 .4-1 .4 0-2.6-2.4-.4-.1-.4 1-.8 5.3-3.5 43.9-1.2 5.4-1.2 1.6zM179.7 759.2l1.2 6.8 3.2 42 1.1 7.9 1.2 3.1 1.6 1.2 5.2 1.4 29.6 5.8 2.6-1.4-29.3-5.8-5.5-1.4-1.6-1.1-1.2-2.8-1.2-7.2-3.1-39.2-1.2-6.9z"/><path transform="translate(5.66 -3.17)" d="M64.5 797.8l28.1 5 6 .8 1.9-.3 2.6-1.4-2 .3-5.9-.8-28.1-5zM103.1 801.9l1.2-1.6 1.2-5.4 3.5-43.4 .8-5.4 .4-1 .4 .1-2.5-1.2-.4 0-.4 .9-.8 5.3-3.6 45.5-1.2 5.8-1.2 1.8zM108.1 744l1.2 6.6 2.7 38.9 1.2 10.5 1.6 5.2 1.6 1.1 2 0 2.5-1.4-2-.1-1.5-1-1.6-4.8-1.2-9.9-2.8-37.1-1.2-6.8zM120.9 804.9l.8-.7 .8-1.8 1.2-6.7 3.2-40 .7-5.9 .8-1.5-2.5-1.2-.8 1.4-.8 5.9-3.6 45.1-1.2 5.3-1.1 1.5zM125.9 747.1l.8 2.7 .8 7.3 2.3 34.5 1.2 11.1 1.6 5.6 1.6 1.2 2 .1 2.5-1.4-2-.1-1.5-1.1-1.6-5.3-1.2-10.4-2.8-37-1.2-6zM138.7 808.2l.8-.5 .8-1.7 1.2-6.2 3.2-39.8 .8-6.4 .7-2-2.5-1.2-.8 1.9-.8 6.4-3.2 41.8-1.2 6.8-.7 1.7-.8 .6zM143.7 750.4l.8 2.2 .8 6.7 2.3 34.4 1.6 14.1 1.6 4.3 1.6 .9 2-.2 2.5-1.4-1.9 .1-1.6-.8-1.2-2.4-.8-3.8-3.6-43.9-.8-6.7-.8-2.3zM156.9 811.4l1.2-1.7 1.2-5.8 3.2-39.4 .8-7 .8-2.6-2.6-1.1-.8 2.4-.8 7-3.2 41.5-1.1 6.2-1.2 1.9zM161.5 753.8l.8 1.7 .8 6.1 2.3 34.2 1.6 14.8 1.6 4.7 1.6 1 2 0 2.5-1.4-1.9 0-1.6-.9-1.6-4.4-1.6-14-2.4-32.7-.8-6.2-.7-1.8zM174.7 814.9l1.2-1.5 1.2-5.4 3.6-43.2 .8-5.3 .4-1 .4 .1-2.6-1.2-.4 0-.4 .9-.8 5.2-3.5 45.4-1.2 5.7-1.2 1.7zM179.7 757.4l.8 3.3 .8 7.9 2.7 38.9 1.2 8.3 1.2 3.2 1.6 1.2 5.2 1.4 29.6 5.8 2.6-1.4-29.7-5.9-5.1-1.3-1.6-1.2-1.2-3-1.2-7.8-3.2-41.3-1.1-6.9z"/><path transform="translate(3.77 -2.12)" d="M64.5 797.8l28.5 5.1 5.6 .7 1.9-.3 2.6-1.4-2 .3-5.9-.8-28.1-5zM103.1 801.9l1.2-1.8 1.2-5.7 3.6-45 1.1-6.3-2.5 .1-.8 2.8-.8 7.6-3.2 41.9-1.2 6-1.2 1.8zM107.7 743.2l.8 1 .8 5.4 2.7 39.5 1.2 10.8 1.6 5.3 1.6 1.1 2 0 2.5-1.4-2-.1-1.5-1-1.6-5.1-1.2-10.4-2.8-38.5-.8-5.6-.8-1.1zM120.9 804.9l1.2-1.5 1.2-5.2 3.6-44.7 .8-5.9 .7-1.4-2.5 .2-.8 1.2-.8 5.8-3.6 45.9-1.2 5.4-1.1 1.6zM125.9 746.4l.8 2.5 .8 7.2 2.3 35 1.2 11.4 1.6 5.8 1.6 1.2 2 .1 2.5-1.4-1.9-.1-1.6-1.2-1.6-5.5-1.2-11-2.4-34.1-.8-7.3-.8-2.8zM138.7 808.2l.8-.6 .8-1.7 1.2-6.7 3.2-41.3 .8-6.5 .8-1.9-2.6 .2-.8 1.7-.8 6.3-3.2 42.6-1.1 6.9-.8 1.8-.8 .6zM143.7 749.7l.8 2 .8 6.6 2.3 34.9 1.6 14.4 1.6 4.5 1.6 .9 2-.2 2.5-1.4-1.9 .1-1.6-.8-1.6-4.3-1.6-13.9-2.4-34-.8-6.8-.7-2.2zM156.9 811.4l1.2-1.9 1.2-6.1 3.2-41.1 .8-7 .8-2.4-2.6 .1-.8 2.2-.8 7-3.2 42.2-1.1 6.4-1.2 2zM161.5 753l.8 1.5 .8 6.1 2.7 39.7 1.2 10.2 1.6 4.8 1.6 1 2 0 2.5-1.4-1.9 0-1.6-1-1.6-4.6-1.6-14.7-2.4-33.8-.7-6.2-.8-1.7zM174.7 814.9l1.2-1.7 1.2-5.7 3.6-44.9 1.2-6.2-2.6 .2-.8 2.7-.8 7.5-3.1 41.8-1.2 5.9-1.2 1.8zM179.3 756.6l.8 1 .8 5.5 3.5 47.7 .8 4.9 1.2 3.2 1.6 1.3 4.8 1.3 30 5.9 2.6-1.4-29.7-5.9-5.1-1.3-1.6-1.2-1.2-3.2-.8-4.7-3.5-46.4-.8-5.7-.8-1.2z"/><path transform="translate(1.89 -1.06)" d="M65.2 797.4l28.5 5.1 5.5 .7 2-.3 1.9-1-2 .3-5.5-.7-28.5-5.1zM103.1 801.9l1.2-1.8 1.2-6 3.5-46.1 1.2-6.1-1.9 .8-.7 2.7-.8 7.6-3.2 42.1-1.2 6-1.2 1.8zM108.3 742.7l.8 1 .8 5.4 2.8 39.5 1.2 10.9 1.6 5.3 1.6 1.1 1.9 0 1.9-1.1-2 0-1.5-1.1-1.6-5.2-1.2-10.7-2.8-39.4-.8-5.4-.8-1.1zM120.9 804.8l.8-.7 .8-2 1.2-7.4 3.2-42.5 1.1-6.9-1.8 .7-1.2 6.8-3.2 42.8-1.2 7.5-.8 2-.8 .8zM126.2 746l.4-.1 .3 .6 .8 4.9 4 50.7 1.6 5.8 1.6 1.3 1.9 0 1.9-1-2-.1-1.5-1.2-1.6-5.8-4-50.4-.8-4.8-.4-.8-.4 .2zM138.7 808.2l.8-.6 .8-1.8 1.2-6.9 3.2-42.3 .8-6.4 .7-1.8-1.8 .8-.8 1.6-.8 6.4-3.2 42.6-1.2 7-.8 1.8-.8 .6zM144.4 749.2l.8 1.9 .7 6.7 2.4 35 1.6 14.4 1.6 4.5 1.6 .9 1.9-.2 1.9-1-1.9 .1-1.6-.9-1.6-4.4-1.6-14.3-2.4-34.8-.8-6.6-.8-2.1zM156.9 811.4l1.2-2 1.2-6.3 3.2-42.1 .8-6.9 .8-2.3-1.9 .7-.8 2.2-.8 6.9-3.2 42.4-1.2 6.5-1.2 1.9zM162.2 752.5l.8 1.5 .8 6 2.7 39.8 1.2 10.3 1.6 4.8 1.6 1.1 2-.1 1.8-1-1.9 0-1.6-1-1.6-4.8-1.2-10.1-2.8-39.6-.8-6.1-.7-1.5zM174.7 814.9l1.2-1.8 1.2-5.8 3.2-41.7 .8-7.5 .8-2.8-1.9 .8-.8 2.7-.8 7.5-3.2 41.9-1.2 6-1.1 1.7zM180 756.1l.8 1 .8 5.5 3.5 47.7 .8 5 1.2 3.3 1.6 1.2 4.7 1.3 30.1 5.9 1.9-1-30.1-6-4.7-1.2-1.6-1.3-1.2-3.3-.8-4.8-3.6-47.5-.7-5.5-.8-1.1z"/></g>
<g text-anchor="middle" font-size="12"><text x="85.2" y="845.1">20</text><text x="115.3" y="850.8">10</text><text x="145.4" y="856.4">0</text><text x="173.5" y="862.0">-10</text><text x="203.6" y="867.7">-20</text><text x="239.0" y="865.7">0</text><text x="254.1" y="857.2">1</text><text x="269.2" y="848.8">2</text><text x="284.2" y="840.3">3</text><text x="299.3" y="831.8">4</text><text x="314.4" y="823.4">5</text><text x="329.5" y="814.9">6</text></g>
<g text-anchor="middle" font-size="13.4"><text x="123.0" y="867.0">z</text><text x="311.0" y="846.0">ρ</text><text x="13.1" y="735.0" text-anchor="start">q(z,ρ)</text></g>
<g text-anchor="end" font-size="12"><text x="60.6" y="799.2">0</text><text x="60.6" y="782.2">4</text><text x="60.6" y="765.3">8</text><text x="60.6" y="748.3">12</text><text x="60.6" y="731.4">16</text></g>
<!-- n -->
<g fill="none" stroke="#000" stroke-width=".55">
<path d="M401.3 831.2L556.9 860.2L646.4 810.1L490.8 781.1Z"/>
<path d="M418.1 834.3L419.6 833.5M507.6 784.2L506.1 785.1M448.6 840.0L450.1 839.2M538.1 789.9L536.6 790.7M479.1 845.7L480.6 844.9M568.6 795.6L567.1 796.4M509.6 851.4L511.1 850.6M599.1 801.3L597.6 802.1M540.1 857.1L541.6 856.2M629.6 807.0L628.1 807.8M571.8 851.9L568.5 851.2M416.2 822.9L419.6 823.5M586.7 843.5L583.4 842.9M431.1 814.5L434.5 815.1M601.6 835.2L598.3 834.5M446.1 806.2L449.4 806.8M616.6 826.8L613.2 826.2M461.0 797.8L464.3 798.4M631.5 818.5L628.1 817.8M475.9 789.5L479.2 790.1"/>
</g>
<g fill="none" stroke-width=".42">
<path d="M447.7 839.9l7.9-4.7 6.6-4.3 3.9-3.2 1.1-1.5 0-.4-1.3-.3-1.2 .2-6.9 2.4-9.9 4.6-10.1 5.3M484 846.6l7.9-4.6 6.6-4.4 3.9-3.1 1.1-1.5 0-.5-1.3-.2-1.3 .2-7 2.5-9.6 4.4-10.1 5.4M520.4 853.4l7.9-4.6 6.6-4.4 3.8-3.2 1.1-1.4 0-.5-1.3-.3-1.3 .3-6.9 2.4-9.7 4.5-10.1 5.3" stroke="#00c000" stroke-dasharray="2 1"/>
<path d="M452.6 840.8l88.9-50.2M559.7 793.9l-90.1 50M488.6 847.5l88.9-50.2M595.7 800.6l-90.1 50" stroke="#0000ff" stroke-dasharray="1 2"/>
<path d="M456.8 841.5l9.4-4.9 8.5-4 5.3-1.9 1.6-.4 1.7 0 .2 .4-.4 .7-3.7 3.2-5.9 3.9-7.8 4.7M492.5 848.2l9.4-4.9 8.4-3.9 5.2-2 1.7-.4 1.8-.1 .2 .4-.9 1.2-3.2 2.8-5.8 3.9-7.9 4.7" stroke="#ff00ff" stroke-dasharray=".7 .5"/>
</g>
<g fill="none" stroke="#000" stroke-width=".6">
<path d="M401.5 831.2L401.5 731.6M401.5 792.5L405.0 792.5M401.5 778.5L405.0 778.5M401.5 764.5L405.0 764.5M401.5 749.5L405.0 749.5M401.5 735.5L405.0 735.5"/>
</g>
<linearGradient id="Pn" gradientUnits="userSpaceOnUse" x1="401.30" y1="799.06" x2="413.30" y2="734.68"><stop offset="0" stop-color="#ecdce6"/><stop offset="0.027" stop-color="#e2cdd9"/><stop offset="0.054" stop-color="#d4b9c6"/><stop offset="0.09" stop-color="#c3a0ac"/><stop offset="0.134" stop-color="#aa8087"/><stop offset="0.179" stop-color="#91625f"/><stop offset="0.224" stop-color="#7a463a"/><stop offset="0.26" stop-color="#642816"/><stop offset="0.299" stop-color="#46050a"/><stop offset="0.348" stop-color="#370050"/><stop offset="0.401" stop-color="#32008c"/><stop offset="0.457" stop-color="#3200be"/><stop offset="0.542" stop-color="#2d00e6"/><stop offset="0.622" stop-color="#1e00ff"/><stop offset="0.702" stop-color="#0058ff"/><stop offset="0.787" stop-color="#0096ff"/><stop offset="0.851" stop-color="#00cdff"/><stop offset="0.894" stop-color="#00ebff"/><stop offset="0.925" stop-color="#00ffff"/><stop offset="1" stop-color="#00ffff"/></linearGradient>
<g stroke-width=".4" stroke-linejoin="round" fill="url(#Pn)" stroke="url(#Pn)"><path d="M482.7 718.5l27.2 4.9 14 1.5 18.3 5.9 4.3 .5 13.6 .3 17.9 5.9 4.3 .5 14 .4 14.7 3.9 27.3 5.2 8.1-4.6-27.2-5.1-14.8-3.9-18.3-1.1-17.9-5.6-17.9-1.1-18.3-5.6-14-1.6-27.2-5z" fill="#2d00e6" stroke="#2d00e6"/><path d="M480.8 719.5l27.2 5 14 1.4 18.3 6 4.3 .5 13.6 .2 17.9 5.9 4.3 .5 14 .4 14.8 3.9 27.2 5.2 2.5-1.4-27.2-5.2-14.8-3.9-18.3-.9-17.8-5.8-13.7-.4-4.2-.5-18.3-5.9-14-1.4-27.3-5z" fill="#2d00e6" stroke="#2d00e6"/><path transform="translate(79.71 -44.62)" d="M400.2 764.6l27.2 5 14 1.4 18.3 6 4.3 .5 13.6 .3 17.9 5.9 4.2 .5 14.1 .3 14.7 4 27.3 5.1 1.6-.9-27.3-5.1-14.7-4-14-.3-4.3-.5-17.9-5.9-13.6-.3-4.3-.5-18.3-6-14-1.4-27.2-5z"/><path transform="translate(78.78 -44.1)" d="M400.2 764.6l27.2 5 14 1.4 18.3 6 4.3 .5 13.6 .2 3.9 1 14 5 4.2 .5 14 .3 14.8 4 27.3 5.1 1.6-.9-27.3-5.1-14.7-4-14.1-.3-4.2-.5-17.9-5.9-13.6-.3-4.3-.5-18.3-6-14-1.4-27.2-5z"/><path transform="translate(77.85 -43.58)" d="M400.2 764.6l27.2 5 14 1.3 18.3 6.2 4.3 .5 13.6 .1 3.9 1 14 5 4.2 .5 14 .2 14.8 4.1 27.3 5.1 1.6-.9-27.3-5.1-14.7-4-14.1-.3-4.2-.5-17.9-5.9-13.6-.3-4.3-.5-18.3-6-14-1.4-27.2-5z"/><path transform="translate(76.91 -43.05)" d="M400.2 764.6l27.2 5 14 1.3 18.3 6.2 4.3 .5 13.6 .1 3.9 1 14 5.1 4.3 .4 14 .2 14.7 4.1 27.3 5.1 1.6-.9-27.3-5.1-14.7-4.1-14-.2-4.3-.5-14-5-3.9-1-13.6-.2-4.3-.4-18.3-6.1-14-1.4-27.2-5z"/><path transform="translate(75.98 -42.53)" d="M400.2 764.6l27.2 5 14 1.3 18.3 6.2 4.3 .5 9.3-.3 4.3 .4 3.9 1 14 5.1 4.2 .5 14.1 .1 14.7 4.1 27.3 5.1 1.6-.9-27.3-5.1-14.7-4.1-14-.2-4.3-.5-14-5-3.9-1-13.6-.1-4.3-.5-18.3-6.2-14-1.3-27.2-5z"/><path transform="translate(75.05 -42.01)" d="M400.2 764.6l27.2 5 14 1.3 18.3 6.2 4.3 .5 9.3-.3 4.3 .3 3.9 1 14 5.2 4.2 .5 14.1 .1 14.7 4.1 27.3 5.1 1.6-.9-27.3-5.1-14.7-4.1-14.1-.2-4.2-.4-14-5.1-3.9-1-13.6-.1-4.3-.5-18.3-6.2-14-1.3-27.2-5z"/><path transform="translate(74.12 -41.49)" d="M400.2 764.6l27.2 5 14 1.2 18.3 6.3 4.3 .5 9.3-.3 4.3 .3 3.9 1 9.7 4 4.3 1.2 4.2 .5 14 0 14.8 4.2 27.3 5.1 1.6-.9-27.3-5.1-14.7-4.1-14.1-.1-4.2-.5-14-5.1-3.9-1-4.3-.4-9.3 .3-4.3-.5-18.3-6.2-14-1.3-27.2-5z"/><path transform="translate(73.18 -40.97)" d="M400.2 764.6l27.2 5 14 1.2 18.3 6.4 4.3 .4 9.7-.3 3.9 .3 3.9 1 9.7 4 4.3 1.2 4.3 .5 14 0 14.7 4.2 27.3 5.1 1.6-.9-27.3-5.1-14.7-4.1-14-.1-4.3-.5-14-5.2-3.9-1-4.3-.3-9.3 .3-4.3-.5-18.3-6.2-14-1.3-27.2-5z"/><path transform="translate(72.25 -40.45)" d="M400.2 764.6l27.2 5 14 1.2 18.3 6.4 4.3 .4 9.7-.3 3.9 .3 3.9 1 9.7 4 4.3 1.3 4.2 .4 14.1 0 14.7 4.2 27.3 5.1 1.6-.9-27.3-5.1-14.7-4.2-14 0-4.3-.5-4.3-1.2-9.7-4-3.9-1-3.9-.3-9.7 .3-4.3-.4-18.3-6.4-14-1.2-27.2-5z"/><path transform="translate(71.32 -39.92)" d="M400.2 764.6l27.2 5 14 1.1 18.3 6.5 4.3 .5 9.7-.5 3.9 .3 3.9 1 9.7 4.1 4.3 1.3 4.2 .4 14.1-.1 14.7 4.3 27.3 5.1 1.6-.9-27.3-5.1-14.7-4.2-14 0-4.3-.5-4.3-1.2-9.7-4-3.9-1-3.9-.3-9.7 .3-4.3-.4-18.3-6.4-14-1.2-27.2-5z"/><path transform="translate(70.39 -39.4)" d="M400.2 764.6l27.2 5 14 1.1 3.9 1.1 10.1 4.1 4.3 1.3 4.3 .5 9.7-.5 3.9 .3 3.9 1 9.7 4.1 4.3 1.3 4.2 .5 14-.2 14.8 4.3 27.3 5.1 1.6-.9-27.3-5.1-14.7-4.2-14.1 0-4.2-.4-4.3-1.3-9.7-4-3.9-1.1-3.9-.2-9.7 .4-4.3-.5-18.3-6.4-14-1.2-27.2-5z"/><path transform="translate(69.46 -38.88)" d="M400.2 764.6l27.2 5 14 1.1 3.9 1 10.1 4.3 4.3 1.3 4.3 .4 9.7-.5 3.9 .2 3.9 1.1 9.7 4.1 4.3 1.3 4.2 .5 14-.2 14.8 4.3 27.3 5.1 1.6-.9-27.3-5.1-14.8-4.3-14 .1-4.2-.4-4.3-1.3-9.7-4.1-3.9-1-3.9-.3-9.7 .5-4.3-.5-4.3-1.3-10.1-4.1-3.9-1.1-14-1.1-27.2-5z"/><path transform="translate(68.52 -38.36)" d="M400.2 764.6l27.6 5.1 13.6 .9 3.9 1.1 10.1 4.3 4.3 1.3 4.3 .4 9.7-.5 3.9 .2 3.9 1.1 9.7 4.1 4.3 1.4 4.3 .4 14-.3 14.7 4.4 27.3 5.1 1.6-.9-27.3-5.1-14.7-4.3-14 .2-4.3-.5-4.3-1.3-9.7-4.1-3.9-1-3.9-.3-9.7 .5-4.3-.5-4.3-1.2-10.1-4.2-3.9-1.1-14-1.1-27.2-5z"/><path transform="translate(67.59 -37.84)" d="M400.2 764.6l27.6 5.1 13.6 .9 3.9 1.1 10.1 4.3 4.3 1.3 4.3 .4 9.7-.6 3.9 .3 3.9 1 9.7 4.3 4.3 1.3 4.2 .4 10.2-.5 3.9 .2 14.7 4.4 27.3 5.1 1.6-.9-27.3-5.1-14.7-4.3-14 .2-4.3-.5-4.3-1.3-9.7-4.1-3.9-1.1-3.9-.2-9.7 .5-4.3-.4-4.3-1.3-10.1-4.3-3.9-1-14-1.1-27.2-5z"/><path transform="translate(66.66 -37.31)" d="M400.2 764.6l27.6 5.1 13.6 .8 3.9 1.1 10.1 4.4 4.3 1.3 4.3 .5 9.7-.7 3.9 .2 3.9 1.1 9.7 4.3 4.3 1.3 4.2 .4 10.2-.6 3.8 .2 14.8 4.5 27.3 5.1 1.6-.9-27.3-5.1-14.7-4.4-3.9-.2-10.2 .5-4.2-.4-4.3-1.4-9.7-4.2-3.9-1-3.9-.3-9.7 .6-4.3-.4-4.3-1.3-10.1-4.3-3.9-1.1-13.6-.9-27.6-5.1z"/><path transform="translate(65.73 -36.79)" d="M400.2 764.6l27.6 5.1 13.6 .8 3.9 1.1 10.1 4.4 4.3 1.4 4.3 .4 9.7-.7 3.9 .2 3.9 1 9.7 4.4 4.3 1.3 4.2 .5 10.2-.7 3.8 .2 14.4 4.4 27.7 5.2 1.6-.9-27.3-5.1-14.7-4.4-3.9-.2-10.2 .5-4.2-.4-4.3-1.3-9.7-4.3-3.9-1.1-3.9-.2-9.7 .6-4.3-.4-4.3-1.3-10.1-4.3-3.9-1.1-13.6-.9-27.6-5.1z"/><path transform="translate(64.79 -36.27)" d="M400.2 764.6l27.6 5.1 13.6 .7 3.5 1 10.5 4.7 4.3 1.3 4.3 .4 9.7-.8 3.9 .2 3.9 1.1 9.7 4.4 4.3 1.4 4.3 .4 10.5-.7 3.8 .2 14 4.4 27.7 5.2 1.6-.9-27.6-5.2-14.4-4.4-3.9-.2-10.1 .6-4.3-.4-4.3-1.3-9.7-4.3-3.9-1.1-3.9-.2-9.7 .7-4.3-.4-4.3-1.4-10.1-4.4-3.9-1.1-13.6-.8-27.6-5.1z"/><path transform="translate(63.86 -35.75)" d="M400.2 764.6l27.6 5.1 13.6 .7 3.5 1 10.5 4.7 4.3 1.3 4.3 .4 9.7-.8 3.9 .2 3.9 1.1 9.7 4.4 4.3 1.4 4.2 .4 10.6-.8 3.8 .2 14 4.5 27.7 5.2 1.6-.9-27.7-5.2-14.3-4.4-3.9-.2-10.1 .7-4.3-.4-4.3-1.4-9.7-4.4-3.9-1-3.9-.2-9.7 .7-4.3-.4-4.3-1.4-10.1-4.4-3.9-1.1-13.6-.8-27.6-5.1z"/><path transform="translate(62.93 -35.23)" d="M400.2 764.6l27.6 5.1 13.6 .6 3.5 1 10.1 4.6 4.7 1.6 4.3 .4 9.7-.9 3.9 .1 3.5 1 10.1 4.7 4.3 1.3 4.2 .4 10.5-.8 3.9 .2 14 4.5 27.7 5.2 1.6-.9-27.7-5.2-14-4.4-3.8-.2-10.6 .7-4.2-.4-4.3-1.4-9.7-4.4-3.9-1.1-3.9-.2-9.7 .8-4.3-.4-4.3-1.3-10.5-4.7-3.5-1-13.6-.7-27.6-5.1z"/><path transform="translate(62 -34.7)" d="M400.2 764.6l27.6 5.1 13.6 .5 3.5 1.1 10.1 4.7 4.7 1.5 4.3 .4 10.1-1 3.5 .1 3.5 1 10.1 4.8 4.3 1.4 4.2 .3 10.5-.9 3.9 .2 14 4.6 27.7 5.2 1.6-.9-27.7-5.2-14-4.5-3.8-.2-10.6 .8-4.2-.4-4.3-1.4-9.7-4.5-3.9-1.1-3.9-.1-9.7 .8-4.3-.4-4.3-1.3-10.5-4.7-3.5-1-13.6-.7-27.6-5.1z"/><path transform="translate(61.07 -34.18)" d="M400.2 764.6l27.6 5.1 13.6 .5 3.5 1 10.1 4.8 4.7 1.6 4.3 .3 10.1-1.1 3.5 .1 3.5 1 10.1 4.9 4.3 1.4 4.2 .4 10.5-1 3.9 .1 14 4.7 27.7 5.2 1.6-.9-27.7-5.2-14-4.5-3.9-.2-10.5 .8-4.2-.3-4.3-1.4-10.1-4.8-3.5-.9-3.5-.2-10.1 1-4.3-.4-4.7-1.6-10.1-4.6-3.5-1-13.6-.6-27.6-5.1z"/><path transform="translate(60.13 -33.66)" d="M400.2 764.6l28 5.1 13.2 .4 3.5 1 10.1 4.9 4.7 1.6 4.3 .3 10.1-1.1 3.5 .1 3.5 1 9.7 4.8 4.7 1.6 4.2 .3 10.9-1.1 3.5 .1 14 4.8 27.7 5.2 1.6-.9-27.7-5.2-14-4.6-3.8-.2-10.5 1-4.3-.4-4.3-1.4-10.1-4.8-3.5-1-3.5-.1-10.1 1-4.3-.4-4.7-1.5-10.1-4.7-3.5-1.1-13.6-.5-27.6-5.1z"/><path transform="translate(59.2 -33.14)" d="M400.2 764.6l28 5.1 13.2 .3 3.5 1.1 10.1 4.9 4.7 1.7 4.3 .3 10.1-1.3 3.5 .1 3.5 1 9.7 4.9 4.7 1.6 4.2 .3 10.9-1.2 3.5 .2 13.7 4.7 28 5.3 1.6-.9-27.7-5.2-14-4.7-3.8-.1-10.5 1-4.3-.4-4.7-1.6-9.7-4.7-3.5-1-3.5-.1-10.1 1.1-4.3-.3-4.7-1.6-10.1-4.8-3.5-1.1-13.6-.4-27.6-5.1z"/><path transform="translate(58.27 -32.62)" d="M400.2 764.6l28 5.1 13.2 .2 3.5 1.1 10.1 5.1 4.7 1.6 4.3 .3 10.1-1.4 3.5 .1 3.5 1 9.7 5 4.7 1.7 4.2 .3 10.9-1.3 3.5 .1 13.7 4.8 28 5.3 1.6-.9-27.7-5.2-14-4.8-3.5-.1-10.9 1.1-4.2-.3-4.7-1.6-9.7-4.8-3.5-1.1-3.5 0-10.1 1.2-4.3-.4-4.7-1.6-10.1-4.9-3.5-1-13.2-.4-28-5.1z"/><path transform="translate(57.34 -32.1)" d="M400.2 764.6l28 5.1 13.2 .1 3.1 .9 10.5 5.4 4.7 1.7 4.3 .2 10.1-1.4 3.5 0 3.5 1.1 9.7 5 4.7 1.7 4.2 .3 10.9-1.4 3.5 .1 13.7 4.9 28 5.3 1.6-.9-28-5.3-13.7-4.8-3.5-.1-10.9 1.3-4.2-.4-4.7-1.6-9.7-4.9-3.5-1-3.5-.1-10.1 1.3-4.3-.3-4.7-1.7-10.1-4.9-3.5-1.1-13.2-.3-28-5.1z"/><path transform="translate(56.4 -31.57)" d="M400.2 764.6l28 5.1 13.2 0 3.1 .9 10.5 5.5 4.7 1.7 4.3 .3 10.5-1.7 3.1 0 3.5 1.2 9.7 5.2 4.7 1.7 4.3 .3 10.8-1.6 3.5 0 13.7 5.1 28 5.3 1.6-.9-28-5.3-13.7-4.9-3.5-.1-10.8 1.4-4.3-.3-4.7-1.7-9.7-5-3.5-1.1-3.5 0-10.1 1.4-4.3-.3-4.7-1.6-10.1-5.1-3.5-1.1-13.2-.2-28-5.1z"/><path transform="translate(55.47 -31.05)" d="M400.2 764.6l28 5.1 4.3 .3 8.9-.5 3.1 1 10.5 5.6 4.7 1.8 4.3 .2 10.5-1.8 3.1 0 3.1 1 10.1 5.5 4.7 1.8 4.2 .2 10.9-1.7 3.5 0 13.7 5.1 28 5.4 1.6-.9-28-5.3-13.7-5-3.5 0-10.8 1.4-4.3-.2-4.7-1.8-9.7-5.1-3.5-1.1-3.5 0-10.1 1.6-4.3-.3-4.7-1.7-10.5-5.4-3.1-.9-13.2-.1-28-5.1z"/><path transform="translate(54.54 -30.53)" d="M400.2 764.6l28.4 5.1 3.8 .2 9-.5 3.1 1 10.5 5.8 4.7 1.8 4.3 .2 10.5-2 3.1 0 3.1 1 10.1 5.6 4.7 1.8 4.2 .3 11.3-2 3.1 .1 13.7 5.2 28 5.4 1.6-.9-28-5.3-13.7-5.1-3.5 0-10.9 1.6-4.2-.3-4.7-1.7-9.7-5.3-3.5-1.1-3.1 0-10.5 1.7-4.3-.2-4.7-1.8-10.5-5.5-3.1-1-13.2 .1-28-5.1z"/><path transform="translate(53.61 -30.01)" d="M400.2 764.6l28.4 5.1 3.8 .2 9-.6 3.1 1 10.5 5.9 4.7 1.9 4.3 .1 10.5-2.1 3.1-.1 3.1 1 10.1 5.9 4.7 1.8 4.2 .2 11.3-2.1 3.1 0 13.3 5.3 28.4 5.5 1.6-.9-28-5.3-13.7-5.2-3.1-.1-11.3 1.8-4.2-.2-4.7-1.8-10.1-5.6-3.1-.9-3.1 0-10.5 1.9-4.3-.3-4.7-1.7-10.5-5.7-3.1-1-9 .5-4.2-.3-28-5.1z"/><path transform="translate(52.67 -29.49)" d="M400.2 764.6l28.4 5.1 4.2 .2 8.6-.8 3.1 1.1 10.5 6.1 4.7 1.9 4.3 .1 10.5-2.3 3.1-.1 3.1 1 10.1 6 4.7 1.9 4.3 .2 11.2-2.3 3.1 0 2.8 .8 6.6 3.4 3.9 1.2 28.4 5.5 1.6-.9-28.4-5.4-13.3-5.3-3.1 0-11.2 2-4.3-.2-4.7-1.9-10.1-5.7-3.1-.9-3.1 0-10.5 2-4.3-.2-4.7-1.8-10.5-5.8-3.1-1-8.9 .5-3.9-.2-28.4-5.1z"/><path transform="translate(51.74 -28.96)" d="M400.2 764.6l28.4 5.1 4.2 .1 6.3-.9 2.3 0 3.1 1.1 10.5 6.3 4.7 2 4.3 .1 10.9-2.6 3.1 0 3.1 1.2 10.5 6.4 3.9 1.5 4.2 .1 11.3-2.4 3.1-.1 2.8 .9 6.6 3.4 3.9 1.3 28.4 5.5 1.6-.9-28.4-5.5-13.3-5.3-3.1 0-11.2 2.1-4.3-.1-4.7-1.9-10.1-5.9-3.1-1-3.1 .1-10.5 2.2-4.3-.2-4.7-1.9-10.5-5.9-3.1-1.1-8.9 .7-3.9-.2-28.4-5.1z"/><path transform="translate(50.81 -28.44)" d="M400.2 764.6l28.4 5.1 4.2 .1 6.3-1.1 2.3 0 2.7 1 10.9 6.7 4.7 2 4.3 0 10.9-2.8 3.1 0 3.1 1.2 10.5 6.6 3.9 1.6 4.2 .1 11.3-2.7 3.1-.1 2.8 .9 6.6 3.6 3.9 1.3 28.4 5.5 1.6-.9-28.4-5.5-3.9-1.3-6.6-3.3-2.8-.9-3.1 .1-11.2 2.3-4.3-.1-3.9-1.6-10.5-6.2-3.1-1.2-3.1 0-10.9 2.4-4.3-.1-4.7-1.9-10.5-6.2-3.1-1.1-8.6 .9-4.2-.2-28.4-5.1z"/><path transform="translate(49.88 -27.92)" d="M400.2 764.6l28.7 5.1 3.9 .1 6.3-1.3 2.3 0 2.7 1 10.9 6.9 4.7 2.1 4.3 0 10.8-3 3.2-.1 3.1 1.2 10.5 6.9 3.9 1.7 4.2 0 11.3-2.9 3.1-.2 2.8 .9 6.2 3.6 3.9 1.4 28.8 5.6 1.6-.9-28.4-5.5-3.9-1.3-6.6-3.5-2.8-.9-3.1 .1-11.3 2.6-4.2-.1-3.9-1.6-10.5-6.5-3.1-1.2-3.1 .1-10.9 2.6-4.3-.1-4.7-2-10.5-6.3-3.1-1.1-2.3-.1-6.3 1-4.2-.1-28.4-5.1z"/><path transform="translate(48.95 -27.4)" d="M400.2 764.6l28.7 5.1 3.9 0 6.3-1.4 2.7 .1 2.7 1.1 11.7 7.7 4.3 1.6 3.8-.3 10.5-3.2 3.2-.2 3.1 1.4 10.9 7.3 4.2 1.7 3.9-.3 11.3-3.2 2.7-.1 2.8 .9 6.2 3.8 3.9 1.4 28.8 5.6 1.6-.9-28.4-5.5-3.9-1.3-6.6-3.6-2.8-1-3.1 .2-11.3 2.7-4.2 0-3.9-1.6-10.5-6.7-3.1-1.3-3.2 .1-10.8 2.9-4.3-.1-4.7-2-10.9-6.8-2.7-.9-2.3 0-6.3 1.1-4.2-.1-28.4-5.1z"/><path transform="translate(48.01 -26.88)" d="M400.2 764.6l28.8 5.1 3.8 0 6.3-1.6 2.7 0 2.7 1.2 11.7 8 4.3 1.7 3.5-.3 10.9-3.6 3.1-.2 3.1 1.4 10.9 7.6 4.2 1.7 3.9-.3 11.3-3.5 2.7-.2 2.8 1 6.2 3.9 3.9 1.5 28.8 5.6 1.6-.9-28.8-5.6-3.9-1.4-6.2-3.6-2.8-1-3.1 .2-10.9 2.9-3.8 .3-4.3-1.6-10.9-7.2-3.1-1.3-3.1 .1-10.5 3.1-3.9 .2-4.3-1.6-11.7-7.4-2.7-1.2-2.7 0-6.3 1.3-3.8 0-28.8-5.2z"/><path transform="translate(47.08 -26.35)" d="M400.2 764.6l28.7 5.1 3.9 0 6.3-1.8 2.7 0 2.7 1.2 12.1 8.5 3.9 1.5 4.2-.5 8.2-2.9 1.6-.7-8.2 2.6-4.2 .3-4.3-1.6-11.7-7.7-2.7-1.2-2.7 0-6.3 1.4-3.8 0-28.8-5.1zM474.5 775l1.2-.4-1.6 .6-1.2 .5zM474.1 775.2l2.7-.7 2.7 .7 11.7 8.3 4.3 2.1 3.9 0 12-4 2.7-.3 2.8 1.1 6.2 4.1 3.9 1.5 28.8 5.6 1.6-.9-28.8-5.6-3.9-1.5-6.2-3.7-2.8-1-2.7 .1-11.6 3.4-4.3 .1-4.3-2-11.7-7.8-2.7-.6-2.7 .5z"/><path transform="translate(46.15 -25.83)" d="M400.2 764.6l28.7 5.1 3.9-.1 6.3-1.9 2.7-.1 2.7 1.3 11.7 8.6 3.9 1.7 3.9-.3 7.7-2.8 1.6-.8-7.7 2.5-3.9 .2-3.9-1.6-11.7-8-2.7-1.2-2.7 0-6.3 1.6-3.8 0-28.8-5.1zM473.3 775.3l3.2-1.1-1.7 .5-3.1 1.4zM474.8 774.7l2.8-.4 2.3 .8 11.3 8.5 4.3 2.2 3.9-.1 8.9-3.1 1.6-.7-8.9 2.7-3.9 0-4.7-2.3-10.9-7.7-2.3-.7-2.7 .3zM509.9 781.9l3.1-1.1-1.6 .5-3.1 1.3zM511.4 781.3l2.3-.3 2 .5 7 4.7 4.7 1.9 28.4 5.5 1.6-.9-28-5.4-5.1-1.9-7-4.3-1.9-.5-2.4 .2z"/><path transform="translate(45.22 -25.31)" d="M400.2 764.6l27.6 5 4.6 0 3.9-1.1 1.6-.7-3.9 1-4.6-.1-27.6-5zM437.9 767.8l2.8-.9-1.6 .5-2.8 1.1zM439.1 767.4l2.3-.2 2.3 .9 11.3 8.7 4.7 2.6 3.5-.1 7.8-3 1.6-.7-7.4 2.4-3.9 .1-4.7-2.4-11.3-8-2.3-.9-2.3 .1zM472.6 775.6l4.6-1.9-1.6 .5-4.6 2.1zM475.6 774.2l2.4-.1 1.9 .7 11.3 8.9 4.3 2.3 3.5-.1 8.5-3 1.6-.7-8.1 2.5-3.9 .1-4.3-2.1-11.3-8.3-1.9-.7-2.4 0zM509.1 782.2l4.3-1.7-1.6 .5-4.3 1.9zM511.8 781l1.9-.3 2 .6 7 4.9 4.7 1.9 28.4 5.5 1.6-.9-28.4-5.5-4.7-1.8-7-4.6-1.9-.5-2 .2z"/><path transform="translate(44.28 -24.79)" d="M400.2 764.6l27.6 5 4.3 0 3.5-1 1.6-.6-3.9 .8-4.3-.1-27.2-5zM437.2 768l3.9-1.4-1.6 .4-3.9 1.6zM439.5 767l2.3 0 1.9 .8 11.7 9.4 4.3 2.4 3.5-.2 7.4-3 1.6-.7-7.4 2.6-3.9-.1-7-4.3-8.6-6.5-1.9-.8-2.3 0zM472.2 775.7l5.4-2.3-1.6 .4-5.4 2.6zM476 773.8l2-.1 1.9 .8 10.9 9 4.3 2.7 3.5 0 8.5-3.2 1.6-.8-8.1 2.7-3.9 0-4.7-2.7-10.1-7.8-2.3-1-2 0zM508.7 782.2l5.1-2-1.6 .4-5.1 2.4zM512.2 780.6l1.9-.2 1.6 .5 7 5.2 4.3 1.9 28.8 5.6 1.6-.9-28.4-5.5-4.7-1.9-7-4.7-3.5-.4z"/><path transform="translate(43.35 -24.27)" d="M400.2 764.6l27.2 5 4.3 .1 3.5-1 1.6-.7-3.5 .8-4.3-.1-27.2-5zM436.8 768l4.6-1.7-1.6 .3-4.6 2.1zM439.8 766.6l2 0 1.9 .9 7.4 6.5 8.2 5.7 3.5 .1 7-3 1.6-.8-7 2.5-3.5-.1-7.4-4.7-8.2-6.6-1.9-.8-2 0zM471.4 776l6.6-2.9-1.6 .3-6.6 3.4zM476.4 773.4l2 .1 1.9 1 10.5 9.1 4.3 2.8 3.5 0 8.2-3.3 1.6-.8-8.2 2.9-3.5-.1-4.7-2.8-10.1-8.2-1.9-.9-2-.1zM508.4 782.3l5.8-2.5-1.6 .4-5.8 2.9zM512.6 780.2l3.1 .4 6.6 5.2 4.7 2.2 28.8 5.6 1.6-.9-28.8-5.6-4.3-1.8-7-5-3.1-.5z"/><path transform="translate(42.42 -23.75)" d="M400.2 764.6l27.2 5 3.9 .1 3.5-1 1.6-.7-3.5 .8-3.9-.1-27.2-5zM436.4 768l5.4-2.1-1.6 .3-5.4 2.5zM440.2 766.2l1.6 .1 1.9 .9 7.4 6.8 5.9 4.7 2.3 1.3 1.5 .3 2-.3 6.6-3.1 1.6-.8-6.6 2.6-3.5 0-7.8-5.3-7.8-6.6-1.9-.8-1.6-.1zM471 776.1l7-3.4-1.6 .4-7 3.8zM476.4 773.1l2 0 1.9 1.1 10.5 9.6 4.3 2.9 3.1 0 7.8-3.3 1.6-.8-7.4 2.8-3.5-.1-4.7-2.9-10.1-8.6-1.9-1-2-.1zM507.6 782.6l7-3.2-1.6 .4-7 3.6zM513 779.8l1.5 0 1.6 .7 6.2 5.2 4.3 2.1 29.2 5.8 1.6-.9-28.8-5.6-4.7-2.1-6.2-4.8-3.1-.8z"/><path transform="translate(41.49 -23.22)" d="M400.2 764.6l26.8 4.9 4.3 .1 3.1-.8 1.6-.7-3.1 .7-4.3-.2-26.8-4.9zM436 768.1l5.8-2.5-1.6 .2-5.8 3zM440.2 765.8l1.6 .1 1.9 .9 7 6.8 6.3 5.3 2.3 1.4 3.1 0 6.6-3.2 1.6-.9-6.6 2.8-3.1-.1-8.2-5.8-7.4-6.6-1.9-.9-1.6 0zM470.6 776.2l5.9-3.2 1.9-.7-1.6 .3-2 .7-5.8 3.8zM476.8 772.6l1.5 .1 2 1.1 7.4 7.3 5 4.5 2.4 1.4 3.1 0 7.4-3.4 1.6-.9-7.4 3-3.1-.1-4.3-2.8-10.5-9.3-1.9-1-1.6-.2zM507.2 782.7l7.4-3.6-1.6 .3-7.4 4.2zM513 779.4l1.5 0 1.6 .7 6.2 5.5 4.3 2.2 29.2 5.8 1.6-.9-28.8-5.6-4.7-2.2-6.2-5.1-3.1-.7z"/><path transform="translate(40.55 -22.7)" d="M400.2 764.6l26.8 4.9 3.9 .1 3.1-.7 1.6-.8-3.1 .7-3.9-.2-26.8-4.9zM435.6 768.1l6.6-2.9-1.6 .2-1.9 .6-4.7 2.9zM440.6 765.4l1.6 .1 1.5 .9 6.6 6.8 6.7 5.9 2.3 1.5 1.6 .3 1.5-.3 5.8-3.1 1.6-.9-5.8 2.7-1.9 .2-1.6-.5-8.2-6.3-6.6-6.2-1.9-1.1-1.6-.2zM469.8 776.6l6.7-3.9 1.9-.7-1.6 .2-1.9 .8-6.7 4.5zM476.8 772.2l1.6 .1 1.9 1.2 7 7.3 5.4 5 2.4 1.5 3.1 0 7-3.6 1.6-.8-7 3-3.1 0-4.3-3-10.5-9.7-1.9-1.1-1.6-.1zM506.8 782.9l5.8-3.4 2.4-.8-1.6 .2-2 .7-6.2 4.1zM513.4 778.9l2.7 .8 6.2 5.8 4.3 2.3 29.2 5.8 1.6-.9-29.2-5.8-4.3-2.1-6.2-5.3-2.7-.8z"/><path transform="translate(39.62 -22.18)" d="M400.2 764.6l26.8 4.9 3.9 .1 3.1-.9 1.6-.7-3.1 .8-3.9-.2-26.8-4.9zM435.6 768l6.6-3.2-1.6 .1-1.9 .8-4.7 3zM440.6 764.9l1.6 .2 1.5 1 6.6 7.1 6.7 6.2 2.3 1.6 1.5 .3 1.6-.4 5.5-3.2 1.6-.9-5.9 2.8-3.1-.3-8.6-6.9-6.2-6.3-1.9-1.1-1.6-.2zM469.5 776.8l7-4.5 2.3-.7-1.6 .1-2.3 1-7 5zM477.2 771.7l1.5 .3 1.6 1.1 7 7.6 5.4 5.4 2.4 1.5 1.5 .3 1.6-.4 6.6-3.6 1.6-.9-6.6 3.2-3.1 0-2.3-1.5-5.1-4.5-7.4-7.4-1.6-.9-1.5-.3zM506.4 783l6.6-4.1 2-.6-1.6 .2-2 .7-6.6 4.7zM513.4 778.5l2.7 .8 6.2 6.2 4.3 2.3 29.2 5.8 1.6-.9-29.2-5.8-4.3-2.2-6.2-5.6-2.7-.8z"/><path transform="translate(38.69 -21.66)" d="M400.2 764.6l26.4 4.8 3.9 .2 3.1-.8 1.6-.7-3.1 .7-3.9-.2-26.4-4.9zM435.2 768.1l5.5-3.3 1.9-.5-1.6 .1-1.9 .7-5.5 3.7zM441 764.4l1.6 .4 1.5 1.2 5.9 6.7 8.9 8.5 1.6 .4 1.5-.2 4.3-2.7 1.6-1-4.3 2.2-1.5 .2-1.6-.5-8.6-7.3-6.2-6.5-1.5-1.1-1.6-.4zM467.9 777.7l8.6-5.7 2.3-.9-1.6 .2-2 .7-8.9 6.7zM477.2 771.3l1.5 .3 1.6 1.1 6.2 7.2 8.2 7.9 1.5 .5 1.6-.3 6.2-3.7 1.6-.9-6.2 3.2-1.6 .2-1.5-.5-7.8-6.8-6.6-7-1.6-1.1-1.5-.3zM505.6 783.4l7.4-4.8 2-.7-1.6 .1-2 .8-7.4 5.5zM513.4 778l2.7 .9 6.2 6.5 4.3 2.4 29.2 5.8 1.6-.9-29.2-5.8-4.3-2.3-6.2-5.9-2.7-.8z"/><path transform="translate(37.76 -21.14)" d="M400.2 764.6l26.4 4.8 3.9 .2 2.7-.7 1.6-.7-2.7 .5-3.9-.2-26.4-4.8zM434.8 768.2l5.9-3.7 1.9-.6-1.6 .1-1.9 .7-5.9 4.2zM441 764l1.6 .3 1.5 1.3 5.5 6.6 8.9 9.1 2.7 .7 3.9-2.3 1.6-1.2-3.9 1.9-2.7-.6-8.5-7.9-5.9-6.5-1.5-1.1-1.6-.4zM466.7 778.5l5.1-3.2 4.7-3.6 2.3-1-1.6 .1-2 .8-5 4.5-5.1 3.6zM477.2 770.8l1.5 .3 1.6 1.1 6.2 7.7 8.2 8.3 1.5 .5 1.6-.3 5.1-3.3 1.6-1-5.1 2.8-1.6 .2-1.5-.4-7.8-7.3-6.6-7.3-1.6-1.1-1.5-.3zM504.5 784.1l3.8-2.3 4.7-3.6 2.4-.8-1.7 .1-2.3 .9-4.7 4.1-3.8 2.6zM513.7 777.5l2.4 .9 5.8 6.5 4.3 2.7 5.8 1.6 23.8 4.4 1.6-.9-29.2-5.8-4.3-2.4-6.2-6.2-2.3-.9z"/><path transform="translate(36.83 -20.61)" d="M400.2 764.6l26.4 4.8 3.9 .2 2.7-.8 1.6-.7-2.7 .6-3.9-.2-26.4-4.8zM434.8 768.1l5.9-4 1.9-.7-1.6 0-1.9 .8-5.9 4.6zM441 763.4l1.6 .4 1.5 1.3 5.5 7 8.9 9.6 1.6 .8 1.1-.1 3.1-1.9 1.6-1.3-3.1 1.6-2.7-.7-8.5-8.3-5.9-6.8-1.5-1.2-1.6-.4zM465.9 779.2l5.9-4 5-4.2 2.4-.8-1.6 0-2.4 1-5 4.8-5.9 4.5zM477.6 770.2l1.1 .3 1.6 1.3 5.8 7.5 8.2 9.1 1.6 .7 1.1 0 3.5-2.2 1.6-1.3-3.5 1.9-2.7-.7-7.8-7.8-6.2-7.4-2.7-1.4zM502.1 785.6l5.9-3.6 5-4.2 2.3-.9-1.6 .1-2.3 1-4.7 4.4-6.2 4.5zM513.7 777l2.4 1 5.8 6.8 4.3 2.8 5.8 1.6 23.8 4.4 1.6-.9-23.8-4.4-5.8-1.6-3.9-2.3-6.2-6.5-2.4-1z"/><path transform="translate(35.89 -20.09)" d="M400.2 764.6l26 4.8 3.9 .2 2.7-.7 1.6-.7-2.7 .5-3.9-.2-26-4.8zM434.4 768.2l6.3-4.6 2.3-.7-1.6 0-2.3 .8-3.9 3.7-2.4 1.5zM441.4 762.9l1.2 .4 1.5 1.3 5.5 7.4 8.9 10.2 2.3 .8 3.2-1.9 1.6-1.3-3.1 1.5-2.4-.8-8.9-9.2-5.5-6.8-2.7-1.6zM465.6 779.8l6.2-4.7 5-4.5 2.4-.9-1.6 0-2.4 1-4.6 4.8-6.6 5.6zM477.6 769.7l1.1 .3 1.6 1.3 5.8 8 8.2 9.6 2.3 .7 3.1-1.8 1.7-1.4-3.2 1.5-2.3-.7-8.2-8.7-5.8-7.3-2.7-1.5zM501.4 786.4l7-4.8 4.6-4.2 2.4-1-1.6 0-2.4 1.2-4.6 4.7-7.1 5.5zM513.8 776.4l2.3 1.1 5.8 7.1 4.3 3 5.8 1.6 23.8 4.4 1.6-.9-23.8-4.4-5.8-1.6-4.3-2.7-5.8-6.6-2.3-1z"/><path transform="translate(34.96 -19.57)" d="M400.2 764.6l26 4.8 3.9 .2 2.7-.8 1.6-.7-2.7 .6-3.9-.2-26-4.8zM434.4 768.1l2.4-1.5 3.9-3.4 2.3-.8-1.6-.1-2.3 1-3.9 3.9-2.4 1.6zM441.4 762.3l1.2 .4 1.5 1.4 5.5 7.8 8.9 10.7 2.3 .9 2.8-1.7 1.6-1.4-2.7 1.3-2.4-.8-8.9-9.7-5.5-7.1-2.7-1.7zM465.2 780.4l6.6-5.4 5-4.8 2.4-1-1.6-.1-2.4 1.1-4.6 5.2-7 6.4zM477.6 769.1l1.1 .3 1.6 1.4 5.4 7.9 8.6 10.6 2.3 .8 2.8-1.7 1.6-1.4-2.8 1.4-1.1-.1-1.6-1-8.2-9.4-5-6.7-1.6-1.5-1.5-.5zM501 787l7.4-5.5 5-4.8 2.3-.8-1.6 0-2.3 .9-5.1 5.3-7.3 6.3zM514.1 775.9l2.4 1.4 5.8 7.6 3.9 2.7 5.8 1.6 23.8 4.4 1.6-.9-23.8-4.4-5.8-1.6-3.5-2.1-6.2-7.3-2.4-1.4z"/><path transform="translate(34.03 -19.05)" d="M400.2 764.6l26 4.8 3.5 .2 2.7-.7 1.7-.7-2.8 .5-3.5-.2-26-4.8zM434.1 768.2l2.3-1.4 4.7-4.4 1.9-.6-1.6-.1-1.9 .7-4.7 4.9-2.4 1.6zM441.4 761.7l1.2 .4 1.5 1.5 5.1 7.7 9.3 11.8 2.3 .9 2.4-1.4 1.6-1.6-2.7 1.2-2.4-1.2-8.5-9.9-5.5-7.5-1.5-1.4-1.2-.4zM464.8 781l7.4-6.4 4.6-4.9 2.4-1.1-1.6-.1-2.4 1.2-4.6 5.5-7.4 7.4zM477.6 768.5l1.5 .6 1.6 1.7 5 7.8 8.2 10.9 2.3 1.2 2.8-1.5 1.6-1.6-2.8 1.3-2.3-1.1-8.2-10-5-7.1-1.6-1.5-1.5-.6zM500.6 787.6l7.8-6.3 5-5.1 2.3-.8-1.6-.1-2.3 .9-5.1 5.8-7.7 7.2zM514.1 775.3l2.4 1.5 5.8 8 3.9 2.8 5.8 1.6 23.8 4.4 1.6-.9-23.8-4.4-5.8-1.6-3.5-2.2-6.2-7.7-2.4-1.4z"/><path transform="translate(33.1 -18.53)" d="M400.2 764.6l26 4.8 3.5 .2 2.7-.7 1.6-.8-2.7 .6-3.5-.2-26-4.8zM434 768.1l2.4-1.5 4.7-4.7 1.9-.6-1.6-.2-2 .8-4.6 5.2-2.4 1.8zM441.4 761.1l1.2 .4 1.5 1.6 5.1 8 9.3 12.6 1.2 .8 1.1 .1 2.4-1.6 1.6-1.6-2.4 1.3-2.3-.8-8.9-10.9-5.5-7.9-1.5-1.4-1.2-.4zM464.8 781.4l7.4-7 4.6-5.2 1.6-1 1.2-.1-1.6-.2-1.2 .2-1.6 1.1-4.6 5.9-7.4 7.9zM478 767.9l1.1 .6 1.6 1.7 4.6 7.7 8.6 12.1 2.3 1.3 2.8-1.7 1.6-1.6-2.8 1.4-2.3-1.2-8.2-10.5-5-7.5-2.7-2.1zM500.6 788l7.7-6.8 5.1-5.5 2.3-.9-1.6-.2-2.3 1.1-5.1 6.2-7.7 7.7zM514.1 774.6l2.4 1.6 5.8 8.5 3.9 2.8 5.8 1.7 23.8 4.4 1.6-.9-23.8-4.4-5.8-1.6-3.9-2.7-5.8-7.7-2.4-1.5z"/><path transform="translate(32.16 -18)" d="M400.2 764.6l26 4.8 3.5 .1 2.8-.7 1.6-.8-2.8 .7-3.5-.2-26-4.8zM434.1 768l2.3-1.6 4.7-5 1.9-.8-1.6-.2-1.9 .9-4.7 5.6-2.3 1.9zM441.4 760.4l1.2 .5 1.5 1.6 5.1 8.5 9.3 13.3 2 1 2.3-1.4 1.6-1.7-2.3 1.1-2.4-1.3-8.9-11.7-5.1-7.7-1.5-1.5-1.2-.5zM464.4 782.2l7.8-7.9 4.6-5.6 1.6-1.1 1.2-.1-1.6-.2-1.2 .1-1.6 1.3-4.6 6.2-7.8 9zM478 767.3l1.1 .6 1.6 1.8 4.7 8 8.5 12.9 1.2 1 1.1 .3 2.4-1.4 1.6-1.7-2.3 1.2-2.4-1.3-8.1-11.1-5.1-7.9-1.6-1.7-1.1-.5zM500.2 788.8l8.2-7.7 5-5.9 2.3-1-1.6-.2-2.3 1.1-5 6.6-8.2 8.8zM514.1 774l2.4 1.6 5.8 8.9 3.9 3 5.8 1.7 23.8 4.4 1.6-.9-23.8-4.4-5.8-1.7-3.9-2.7-5.8-8.2-2.4-1.5z"/><path transform="translate(31.23 -17.48)" d="M400.2 764.6l25.6 4.7 3.5 .2 2.8-.6 1.6-.8-2.8 .6-3.5-.3-25.6-4.7zM433.7 768.1l2.7-1.9 4.7-5.4 1.9-.8-1.6-.2-1.9 .9-4.7 6-2.7 2.2zM441.4 759.8l1.2 .4 1.5 1.7 5.1 8.9 9.3 14.1 2 1 2.3-1.5 1.6-1.8-2.3 1.3-2-1-9.3-12.7-5.1-8.2-1.5-1.6-1.2-.4zM464.4 782.6l7.8-8.4 4.6-6 1.6-1.2 1.2-.2-1.6-.2-1.2 .2-1.6 1.3-4.6 6.7-7.8 9.6zM478 766.6l1.1 .6 1.6 1.9 4.7 8.4 8.5 13.7 1.2 1.1 1.1 .3 2.4-1.6 1.6-1.8-2.3 1.4-2.4-1.3-8.5-12.4-4.7-7.7-1.6-1.8-1.1-.6zM500.2 789.2l8.2-8.3 5-6.3 2.3-1-1.6-.3-1.1 .3-1.2 1-4.7 6.5-8.5 9.9zM514.1 773.3l2.4 1.7 5.8 9.4 3.9 3.1 5.8 1.7 23.8 4.4 1.6-.9-23.8-4.4-5.8-1.7-3.9-2.9-5.8-8.5-2.4-1.6z"/><path transform="translate(30.3 -16.96)" d="M400.2 764.6l25.6 4.7 3.5 .2 2.8-.7 1.6-.8-2.8 .7-3.5-.3-25.6-4.7zM433.7 768l2.7-2 4.7-5.8 1.1-.7 1.2-.1-1.6-.3-1.2 .1-1.1 .9-4.7 6.4-2.7 2.3zM441.8 759.1l2.3 2.2 4.7 8.7 9.3 15 2 1.6 1.1-.2 1.2-1 1.6-1.9-1.2 .9-1.1 .1-2-1.4-8.9-13.1-5.1-8.5-2.3-2.1zM464 783.5l8.2-9.5 4.6-6.4 1.6-1.2 1.2-.2-1.6-.3-1.2 .2-1.6 1.4-4.2 6.6-8.6 11.3zM478 765.9l1.1 .6 1.6 2.1 4.7 8.8 8.5 14.4 2 1.5 1.1-.3 1.2-1 1.6-1.9-1.2 .9-1.1 .2-2-1.4-8.5-13-4.7-8.2-1.6-1.8-1.1-.6zM499.8 790.1l8.6-9.3 5-6.7 2.3-1.2-1.6-.3-1.1 .3-1.2 1.1-4.7 6.9-5 5.8-3.9 5.3zM514.1 772.6l1.2 .5 1.2 1.3 5.8 9.9 3.5 3 5.8 1.8 24.2 4.5 1.6-.9-23.8-4.4-5.8-1.7-3.9-3-5.8-9-2.4-1.7z"/><path transform="translate(29.37 -16.44)" d="M400.2 764.6l25.6 4.7 3.5 .2 2.4-.6 1.6-.8-2.4 .5-3.5-.2-25.6-4.7zM433.3 768.1l2.7-1.9 5.1-6.6 1.1-.8 1.2-.1-1.6-.3-1.2 .1-1.2 .9-4.6 6.9-3.1 2.6zM441.8 758.4l2.3 2.3 4.7 9.1 9.7 16.4 2 1.2 1.9-1.4 1.6-1.9-1.2 .9-1.1 .2-2-1.5-8.9-13.8-5.1-9-2.3-2.2zM464 784.1l8.2-10.2 4.6-6.8 1.6-1.4 1.2-.2-1.6-.3-1.2 .2-1.6 1.5-4.2 7-8.6 12.1zM478 765.2l1.1 .6 1.6 2.2 4.3 8.5 8.9 15.9 2 1.6 1.1-.3 1.2-1.1 1.6-1.9-1.2 .9-1.1 .3-2-1.5-8.5-13.8-4.7-8.5-1.6-2-1.1-.6zM499.8 790.7l8.9-10.6 4.7-6.6 1.2-1 1.1-.3-1.6-.3-1.1 .3-1.2 1.1-4.7 7.4-5 6.1-3.9 5.8zM514.1 771.9l1.2 .5 1.2 1.4 5.8 10.3 3.5 3.1 5.8 1.9 24.2 4.5 1.6-.9-23.8-4.4-5.8-1.7-3.9-3.1-5.8-9.5-2.4-1.8z"/><path transform="translate(28.43 -15.92)" d="M400.2 764.6l25.6 4.7 3.5 .2 2.4-.6 1.6-.8-2.4 .5-3.5-.2-25.6-4.7zM433.3 768.1l3.1-2.5 4.7-6.6 1.1-.9 1.2-.1-1.6-.3-1.2 .1-1.1 1-4.7 7.3-3.1 2.8zM441.8 757.7l2.3 2.4 4.7 9.5 9.7 17.3 2 1.3 1.9-1.5 1.6-2-1.2 1-1.1 .2-2-1.6-9.3-15.2-4.7-8.8-2.3-2.3zM464 784.7l8.6-11.6 4.2-6.6 1.6-1.5 1.2-.2-1.6-.4-1.2 .3-1.6 1.6-4.2 7.4-8.6 13zM478 764.4l1.1 .7 1.6 2.3 13.2 25.7 2 1.7 1.1-.3 1.2-1.3 1.6-1.9-1.2 1-1.1 .3-2-1.5-8.5-14.6-4.7-9-1.6-2-1.1-.7zM499.8 791.3l3.9-5.5 5-5.8 4.7-7.1 1.6-1.3 1.1 0-1.6-.4-1.1 .1-1.6 1.4-4.7 7.8-5 6.5-3.9 6.2zM514.5 771.2l2.4 2.6 5.4 10.2 3.5 3.2 5.8 1.9 24.2 4.5 1.6-.9-24.1-4.5-5.9-1.8-3.5-3.1-5.4-9.4-2.4-2.3z"/><path transform="translate(27.5 -15.4)" d="M400.2 764.6l25.6 4.7 3.5 .2 2.4-.7 1.6-.8-2.4 .6-3.5-.2-25.6-4.7zM433.3 768l3.1-2.7 4.7-6.9 1.1-1 1.2-.1-1.6-.4-1.2 .2-1.1 1-4.7 7.7-3.1 3zM441.8 756.9l2.3 2.5 4.7 10 5 8.8 4.3 8.8 2 1.9 .7 0 1.2-1 1.6-2.1-1.9 .9-2-1.7-9.3-16.1-4.7-9.2-2.3-2.4zM463.6 785.8l9-12.8 4.2-7.1 1.6-1.6 1.2-.2-1.6-.4-1.2 .3-1.6 1.7-4.2 7.8-9 14.4zM478 763.7l1.1 .7 1.6 2.3 13.2 27.1 2 1.8 1.9-1.2 1.6-2-1.9 .9-2-1.6-13.2-24.8-1.6-2.1-1.1-.7zM499.4 792.4l4.3-6.4 5-6.2 4.7-7.5 1.6-1.4 1.1 0-1.6-.4-1.1 0-1.6 1.6-4.7 8.2-5 6.9-4.3 7.2zM514.5 770.5l2.4 2.6 5.4 10.7 3.5 3.4 5.5 1.8 24.5 4.6 1.6-.9-24.1-4.5-5.9-1.9-3.5-3.1-5.4-9.9-2.4-2.4z"/><path transform="translate(26.57 -14.87)" d="M400.2 764.6l25.6 4.7 3.5 .1 2.4-.7 1.6-.7-2.4 .6-3.5-.2-25.6-4.7zM433.3 768l3.1-2.9 4.7-7.4 1.1-1 1.2-.2-1.6-.4-1.2 .2-1.1 1.1-4.7 8.2-3.1 3.1zM441.8 756.1l1.2 .9 1.1 1.8 4.7 10.4 4.7 8.5 5 10.7 1.6 1.4 .7-.1 1.2-1.1 1.6-2.1-1.9 .9-2-1.8-4.3-8.4-5-8.5-4.7-9.7-2.3-2.5zM463.6 786.5l9-13.8 4.2-7.4 1.6-1.7 1.2-.3-1.6-.4-1.2 .3-1.6 1.9-13.2 23.5zM478 762.9l1.1 .7 1.6 2.5 13.2 28.5 2 1.8 .7-.1 1.2-1.1 1.6-2.2-1.9 1.1-2-1.7-13.2-26.1-1.6-2.3-1.1-.7zM499.4 793l4.3-6.8 5-6.6 4.7-8 1.6-1.4 1.1-.1-1.6-.4-1.1 .1-1.6 1.6-4.7 8.7-5 7.3-4.3 7.8zM514.5 769.7l2.4 2.8 5.4 11.2 3.5 3.5 5.5 1.8 24.5 4.6 1.6-.9-24.5-4.6-5.5-1.8-3.5-3.3-5.4-10.3-2.4-2.6z"/><path transform="translate(25.64 -14.35)" d="M400.2 764.6l25.2 4.7 3.5 .2 2.4-.6 1.6-.8-2.3 .5-3.6-.2-25.2-4.7zM432.9 768.1l3.1-2.7 5.1-8.4 1.1-1.1 1.2-.1-1.6-.5-1.2 .2-1.2 1.2-5 9.2-3.1 3zM441.8 755.3l1.2 .9 1.1 1.9 4.7 10.9 4.7 8.8 5 11.4 1.6 1.4 .7-.1 1.2-1.1 1.6-2.2-1.2 1-.7 .1-2-2-4.3-8.9-5-8.9-4.7-10.1-2.3-2.6zM463.6 787.2l9-14.7 4.2-7.9 1.6-1.7 1.2-.3-1.6-.5-1.2 .3-1.6 2-13.2 25zM478 762.1l1.1 .8 1.6 2.5 13.2 29.9 2 2 .7-.2 1.2-1.2 1.6-2.2-1.9 1.2-2-1.8-13.2-27.5-1.6-2.3-1.1-.7zM499.4 793.7l4.3-7.3 5-7 4.7-8.4 1.6-1.6 1.1 0-1.6-.5-1.1 .1-1.6 1.7-4.7 9.2-5 7.7-4.3 8.3zM514.5 768.9l2.4 2.9 5.4 11.7 3.5 3.6 5.5 1.9 24.5 4.6 1.6-.9-24.5-4.6-5.5-1.8-3.5-3.4-5.4-10.9-2.4-2.6z"/><path transform="translate(24.71 -13.83)" d="M400.2 764.6l25.2 4.7 3.5 .2 2.4-.7 1.6-.8-2.4 .6-3.5-.2-25.2-4.7zM432.9 768l3.1-2.8 5.1-8.9 1.1-1.1 1.2-.2-1.6-.5-1.2 .2-1.2 1.3-5 9.7-3.1 3.1zM441.8 754.5l1.1 1 1.2 1.9 4.7 11.4 4.7 9.2 5 12 1.6 1.5 .7-.1 1.2-1.2 1.6-2.3-1.2 1.1-.7 .1-1.6-1.4-5-10.9-4.7-8.5-4.7-10.6-1.1-1.8-1.2-.9zM463.6 787.9l13.2-23.9 1.6-1.9 1.2-.3-1.6-.5-1.2 .4-1.6 2-13.2 26.5zM478 761.3l1.1 .8 1.6 2.7 13.2 31.3 2 2.1 1.5-.9 1.6-2.3-1.5 .8-2-1.9-13.2-28.9-1.6-2.5-1.1-.7zM499 795l5.1-9.1 4.6-6.7 4.7-8.9 1.6-1.6 1.1-.1-1.6-.5-1.1 .1-1.6 1.8-4.7 9.7-4.6 7.4-5.1 10.2zM514.5 768.1l2.4 3 5.4 12.3 1.6 2.1 1.9 1.6 5.5 1.9 24.5 4.6 1.6-.9-24.5-4.6-5.5-1.8-3.5-3.6-5.4-11.3-2.4-2.8z"/><path transform="translate(23.77 -13.31)" d="M400.2 764.6l25.3 4.7 3.5 .1 2.3-.6 1.6-.8-2.3 .6-3.5-.2-25.3-4.7zM432.9 768l3.1-3 5.1-9.4 1.1-1.2 1.2-.2-1.6-.5-1.2 .3-1.1 1.3-5.1 10.2-3.1 3.3zM441.8 753.7l1.2 1 1.5 2.9 3.9 10.1 5.1 10.5 5 12.7 1.6 1.6 1.5-.9 1.6-2.4-1.5 .8-2-2.1-4.2-10.1-5.1-9.7-4.7-11.1-1.1-1.9-1.2-.9zM463.2 789.2l9.4-17.1 4.2-8.8 1.6-2 1.2-.3-1.6-.5-1.2 .4-1.6 2.2-13.6 28.5zM478 760.5l1.1 .8 1.6 2.8 13.2 32.8 2 2.2 1.5-1 1.6-2.3-1.5 .9-2-2-13.2-30.4-1.6-2.5-1.1-.8zM499 795.8l5.1-9.7 4.6-7.2 4.7-9.3 1.6-1.7 1.1-.1-1.6-.5-1.1 .1-1.6 1.9-4.3 9.4-5 8.6-5.1 10.8zM514.5 767.3l1.2 1.1 1.2 2 5.4 12.8 1.6 2.2 1.9 1.7 5.5 1.9 24.5 4.6 1.6-.9-24.5-4.6-5.5-1.9-3.5-3.6-5.4-11.9-2.4-2.9z"/><path transform="translate(22.84 -12.79)" d="M400.2 764.6l25.2 4.7 3.5 .1 2.4-.7 1.6-.8-2.3 .7-3.5-.2-25.3-4.7zM432.9 767.9l3.1-3.1 5.1-9.9 1.1-1.3 1.2-.2-1.6-.5-1.2 .3-1.1 1.4-5.1 10.7-1.6 2.2-1.5 1.2zM441.8 752.9l1.2 1 1.5 3 3.9 10.5 5.1 11 5 13.3 1.6 1.7 1.5-.9 1.6-2.4-1.5 .8-2-2.2-4.3-10.7-5.4-11-3.9-9.8-1.5-2.9-1.2-.9zM463.2 790.1l13.6-27.4 1.6-2.1 1.2-.4-1.6-.5-1.2 .4-1.6 2.3-13.6 30.1zM478 759.7l1.1 .8 1.6 2.9 13.2 34.4 1.2 1.8 .8 .5 1.5-1.1 1.6-2.4-1.5 1-2-2.1-13.2-31.8-1.6-2.7-1.1-.8zM499 796.6l5.1-10.3 4.6-7.6 4.7-9.8 1.6-1.8 1.1-.1-1.6-.5-1.1 .1-1.6 2-4.7 10.7-5 9-4.7 10.7zM514.5 766.5l1.2 1.1 1.2 2.1 5.4 13.3 1.6 2.3 1.9 1.7 5.5 2 24.5 4.6 1.6-.9-24.5-4.6-5.5-1.9-1.9-1.7-1.6-2.1-5.4-12.4-1.2-2-1.2-1z"/><path transform="translate(21.91 -12.26)" d="M400.2 764.6l25.2 4.6 3.2 .2 2.3-.5 1.6-.9-2.3 .6-3.2-.2-25.2-4.7zM432.5 768l1.9-1.4 1.6-2 5.4-11 1.2-1 .8 0-1.6-.5-.8 0-1.2 1.1-5.4 11.9-1.6 2.2-1.9 1.6zM441.8 752.1l1.2 1 1.5 3.1 4.3 12 5 11.3 4.7 13.1 1.6 1.8 1.5-1.1 1.6-2.4-1.5 .9-1.6-1.6-5-12.9-5.1-10.6-3.9-10.2-1.5-2.9-1.2-1zM463.2 790.9l13.6-28.9 1.6-2.2 1.2-.4-1.6-.5-1.2 .4-1.6 2.4-13.6 31.6zM478 758.9l1.1 .8 1.6 3 13.2 35.9 1.2 2 .8 .4 1.5-1.1 1.6-2.4-1.5 1-2-2.2-13.2-33.3-1.6-2.8-1.1-.8zM499 797.5l5.1-11 5-8.8 4.3-9.5 1.6-1.9 1.1-.1-1.6-.6-1.1 .2-1.6 2.1-4.7 11.1-5 9.5-4.7 11.4zM514.5 765.6l1.2 1.2 1.2 2.2 5.4 13.9 1.6 2.3 1.9 1.8 5.5 2 24.5 4.6 1.6-.9-24.5-4.6-5.5-1.9-1.9-1.7-1.6-2.3-5.4-12.9-1.2-2.1-1.2-1z"/><path transform="translate(20.98 -11.74)" d="M400.2 764.6l25.2 4.6 3.2 .2 2.3-.6 1.6-.8-2.3 .5-3.2-.1-25.2-4.7zM432.5 768l1.9-1.5 1.6-2.2 5.4-11.4 1.2-1.1 .8 0-1.6-.5-.8 0-1.2 1.2-5.4 12.4-1.6 2.3-1.9 1.6zM441.8 751.3l1.1 1 1.6 3.3 4.3 12.4 5 11.8 4.7 13.7 1.6 1.9 1.5-1.2 1.6-2.4-1.5 1-1.6-1.7-4.7-12.6-5-11.1-4.3-11.6-1.5-3-1.2-1zM463.2 791.8l13.6-30.5 1.6-2.3 1.2-.5-1.6-.5-1.2 .5-1.6 2.5-4.2 11-4.7 10.1-4.7 12.1zM478 758l1.1 .9 1.6 3.1 4.3 12.6 4.6 11.8 4.3 13.1 1.2 2 .8 .5 1.5-1.2 1.6-2.5-1.5 1.2-.8-.5-1.2-1.9-13.2-34.8-1.6-2.9-1.1-.9zM499 798.3l4.7-10.9 5-9.1 4.7-10.8 1.6-2 1.1-.2-1.6-.5-1.1 .2-1.6 2.2-4.7 11.6-5 9.9-4.7 12.1zM514.5 764.8l1.2 1.2 1.2 2.4 5.4 14.3 1.6 2.4 1.9 1.9 5.5 2 24.5 4.6 1.6-.9-24.5-4.6-5.5-2-1.9-1.7-1.6-2.3-5.4-13.4-1.2-2.2-1.2-1.2z"/><path transform="translate(20.04 -11.22)" d="M400.2 764.6l25.3 4.6 3.1 .2 2.3-.6 1.6-.8-2.3 .5-3.1-.1-25.3-4.7zM432.5 768l1.9-1.6 1.6-2.3 5.4-12 1.2-1.1 .8-.1-1.6-.5-.8 .1-1.2 1.2-5.4 12.9-1.6 2.5-1.9 1.7zM441.8 750.4l1.2 1.1 1.5 3.4 4.3 12.8 5 12.3 4.7 14.4 1.6 1.9 .8-.2 .7-.9 1.6-2.5-1.5 1.1-1.6-1.8-4.6-13.3-5.1-11.5-4.3-12-1.5-3.2-1.2-1.1zM463.2 792.7l13.6-32.1 1.6-2.4 1.2-.5-1.6-.5-1.2 .5-1.6 2.7-4.2 11.4-4.7 10.5-4.7 12.9zM478 757.2l1.1 1 1.6 3.2 4.3 13 4.6 12.2 4.3 13.8 1.6 2.5 .7 .1 .8-.7 1.6-2.5-.7 .6-.8-.1-1.6-2.3-13.2-36.4-1.6-3-1.1-.9zM498.6 799.8l5.5-13 5-9.6 4.3-10.4 1.6-2.1 1.1-.2-1.6-.5-1.1 .2-1.6 2.3-4.7 12.1-5 10.4-5.1 13.3zM514.5 764l1.2 1.2 1.2 2.5 5.4 14.8 1.6 2.6 1.9 1.8 5.5 2.1 24.5 4.6 1.6-.9-24.5-4.6-5.5-2-1.9-1.8-1.6-2.4-5.4-13.9-1.2-2.3-1.2-1.2z"/><path transform="translate(19.11 -10.7)" d="M400.2 764.6l25.2 4.6 3.2 .2 2.3-.7 1.6-.8-2.3 .6-3.1-.1-25.3-4.7zM432.5 767.9l1.9-1.6 1.6-2.4 5.4-12.5 1.2-1.2 .8-.1-1.6-.5-.8 .1-1.2 1.3-5.4 13.4-1.6 2.6-1.9 1.7zM441.8 749.6l1.2 1.2 1.5 3.4 4.3 13.3 5 12.7 4.7 15.1 1.6 2 .7-.2 .8-1 1.6-2.5-1.5 1.1-1.6-1.8-4.6-14-5.1-11.9-4.3-12.5-1.5-3.3-1.2-1.1zM463.2 793.6l4.7-12.4 4.7-10.2 4.2-11.1 1.6-2.5 1.2-.5-1.6-.5-1.2 .5-1.6 2.8-4.2 11.8-4.7 11-4.7 13.6zM478 756.4l1.1 1 1.6 3.3 4.3 13.5 4.6 12.7 4.3 14.3 1.6 2.7 .7 .1 .8-.8 1.6-2.5-.7 .7-.8-.1-1.6-2.5-4.3-13.2-4.6-12-4.3-12.6-1.6-3.2-1.1-.9zM498.6 800.7l5.1-12.8 5-10 4.7-11.8 1.6-2.2 1.1-.2-1.6-.5-1.1 .2-1.6 2.4-4.7 12.6-5 10.8-5.1 14zM514.5 763.2l1.2 1.3 1.2 2.5 5.4 15.4 1.6 2.6 1.9 1.9 2.3 1.2 3.2 .9 24.5 4.6 1.6-.9-24.5-4.6-5.5-2-1.9-1.9-1.6-2.4-5.4-14.5-1.2-2.4-1.2-1.2z"/><path transform="translate(18.18 -10.18)" d="M400.2 764.6l24.9 4.6 3.1 .2 2.3-.5 1.6-.8-2.3 .4-3.1-.2-24.9-4.6zM432.1 768.1l1.6-1.1 1.5-1.9 5.9-13.8 1.1-1.7 1.2-.3-1.6-.5-1.2 .4-1.1 1.8-5.9 14.7-1.5 2.1-1.6 1.1zM441.8 748.8l1.2 1.2 1.5 3.6 4.3 13.7 5 13.2 4.7 15.7 1.6 2.1 1.1-.7 1.6-2.5-1.1 .6-1.6-1.9-4.7-14.6-5-12.4-4.3-13-1.5-3.4-1.2-1.1zM462.8 795.1l14-35.8 1.6-2.7 1.2-.5-1.6-.5-1.2 .6-1.6 2.8-4.2 12.3-4.3 10.4-3.9 12.4-1.6 3.5zM478 755.6l1.1 1 1.6 3.4 8.9 27.1 4.3 15 1.6 2.7 .7 .1 .8-.7 1.6-2.6-.8 .7-.7-.1-1.6-2.5-4.3-13.9-4.6-12.4-4.3-13.1-1.6-3.3-1.1-.9zM498.6 801.6l5.1-13.4 5-10.5 4.7-12.3 1.6-2.3 1.1-.2-1.6-.5-1.1 .2-1.6 2.5-4.7 13.1-5 11.3-5.1 14.7zM514.5 762.4l1.2 1.3 1.2 2.6 5.4 15.9 1.6 2.7 1.9 2 2.3 1.2 3.2 .9 24.5 4.6 1.6-.9-24.5-4.6-5.5-2.1-1.9-1.9-1.6-2.5-5.4-15-1.2-2.5-1.2-1.2z"/><path transform="translate(17.25 -9.65)" d="M400.2 764.6l24.9 4.6 3.1 .2 2.3-.5 1.6-.9-2.3 .5-3.1-.2-24.9-4.6zM432.1 768l1.6-1.1 1.5-2 5.9-14.3 1.1-1.8 1.2-.3-1.6-.5-1.2 .4-1.2 1.9-5.8 15.2-1.5 2.2-1.6 1.2zM441.8 748l1.2 1.2 1.5 3.7 4.3 14.2 5 13.6 4.7 16.4 1.6 2.2 1.1-.7 1.6-2.6-1.1 .7-1.6-2-4.7-15.3-5-12.8-4.3-13.4-1.5-3.6-1.2-1.1zM462.8 796l14-37.4 1.6-2.8 1.2-.5-1.6-.5-1.2 .6-1.6 3-4.2 12.7-4.3 10.8-3.9 12.9-1.6 3.8zM478 754.8l1.1 1 1.6 3.6 8.9 28 4.3 15.6 1.6 2.8 .7 .1 .8-.8 1.6-2.5-.8 .7-.7-.1-1.6-2.6-4.3-14.6-4.6-12.8-4.3-13.6-1.6-3.4-1.1-.9zM498.6 802.6l5.1-14.2 5-11 4.7-12.7 1.6-2.4 1.1-.2-1.6-.5-.8 0-.7 .7-1.6 3.1-4.3 12.6-5 11.7-5.1 15.4zM514.5 761.6l1.2 1.3 1.2 2.7 5.4 16.5 1.6 2.7 1.9 2.1 2.3 1.2 3.2 .9 24.5 4.6 1.6-.9-24.5-4.6-3.2-.9-2.3-1.2-1.9-2-1.6-2.6-5.4-15.5-1.2-2.6-1.2-1.2z"/><path transform="translate(16.32 -9.13)" d="M400.2 764.6l24.9 4.6 3.1 .2 2.3-.6 1.6-.8-2.3 .5-3.1-.2-24.9-4.6zM432.1 768l1.6-1.1 1.5-2.2 5.9-14.8 1.1-1.8 1.2-.4-1.6-.4-1.2 .4-1.2 1.9-5.8 15.8-1.5 2.2-1.6 1.2zM441.8 747.3l1.1 1.2 1.6 3.8 4.3 14.6 5 14 4.7 17.1 1.6 2.3 1.1-.8 1.6-2.5-1.1 .7-1.6-2.1-4.7-16-5-13.2-4.3-13.9-1.5-3.6-1.2-1.2zM462.8 797l1.6-3.6 3.9-12.6 4.3-10.4 4.2-12.5 1.6-2.9 1.2-.5-1.6-.5-1.2 .7-1.6 3-4.2 13.2-4.3 11.2-3.9 13.5-1.6 3.9zM478 754l1.5 1.8 1.6 4.2 8.5 27.6 4.3 16.2 1.6 3 .7 .1 .8-.9 1.6-2.5-.8 .8-.7-.1-1.6-2.8-4.3-15.1-8.9-27.4-1.6-3.4-1.1-1zM498.6 803.5l5.1-14.9 5-11.4 4.7-13.2 1.6-2.5 1.1-.2-1.6-.5-.8 0-.7 .7-1.6 3.3-4.3 13-5 12.1-5.1 16.1zM514.5 760.8l2 3.1 5.8 18 1.6 2.8 1.9 2.1 2.3 1.3 3.2 .9 24.5 4.6 1.6-.9-24.5-4.6-3.2-.9-2.3-1.2-1.9-2-1.6-2.7-5.4-16.1-1.2-2.6-1.2-1.3z"/><path transform="translate(15.38 -8.61)" d="M400.2 764.6l24.9 4.6 3.1 .2 2.3-.6 1.6-.9-2.3 .6-3.1-.2-24.9-4.6zM432.1 767.9l1.6-1.1 1.5-2.2 5.9-15.4 1.1-1.9 1.2-.4-1.6-.4-1.2 .4-1.1 2-5.9 16.3-1.5 2.4-1.6 1.2zM441.8 746.5l1.2 1.3 1.5 3.9 4.3 15 5 14.5 4.7 17.7 1.6 2.3 1.1-.8 1.6-2.5-1.1 .8-1.6-2.2-4.6-16.6-5.1-13.7-4.3-14.3-1.5-3.8-1.2-1.2zM462.8 797.9l1.6-3.7 3.9-13.2 4.3-10.8 4.2-12.9 1.6-3 1.2-.6-1.6-.4-1.2 .6-1.6 3.2-4.2 13.6-4.3 11.5-3.9 14.1-1.6 4.1zM478 753.3l1.5 1.8 1.6 4.3 3.9 13.9 4.2 13.2 4.7 18.2 1.6 3 .7 .1 .8-.9 1.6-2.4-.7 .8-.8-.1-1.6-2.9-4.3-15.8-8.9-28.2-1.6-3.6-1.1-1zM498.6 804.5l5.1-15.6 5-11.9 4.3-12.7 1.6-3.1 1.1-.8-1.6-.4-1.1 .8-1.6 3.4-4.3 13.4-5 12.6-5.1 16.7zM514.1 760l1.2 .9 1.2 2.4 5.8 18.5 1.6 2.9 1.9 2.1 2.3 1.3 3.2 .9 24.5 4.6 1.6-.9-24.5-4.6-3.2-.9-2.3-1.2-1.9-2.1-1.6-2.8-5.8-17.6-1.2-2.3-1.2-.8z"/><path transform="translate(14.45 -8.09)" d="M400.2 764.6l24.9 4.6 3.1 .2 2.3-.6 1.6-.9-2.3 .6-3.1-.2-24.9-4.6zM432.1 767.9l1.6-1.2 1.5-2.3 5.9-15.9 1.1-1.9 1.2-.4-1.6-.4-1.2 .4-1.1 2.1-5.9 16.8-1.5 2.4-1.6 1.3zM441.8 745.8l1.2 1.3 1.5 4 4.3 15.4 5 14.9 4.7 18.4 1.6 2.4 1.1-.9 1.6-2.4-1.1 .8-1.6-2.3-4.7-17.3-5-14.1-4.3-14.7-1.5-3.9-1.2-1.2zM462.8 798.9l1.6-4 3.9-13.7 4.3-11.2 4.2-13.3 1.6-3.1 1.2-.7-1.6-.3-1.2 .6-1.6 3.3-4.2 14-4.3 11.9-3.9 14.7-1.6 4.2zM478 752.6l1.5 1.8 1.6 4.4 3.9 14.3 4.2 13.5 5.1 20 1.6 2.2 1.1-1 1.6-2.4-.8 .9-.7-.1-1.6-3-4.3-16.4-8.5-27.9-1.6-4.2-1.5-1.8zM498.6 805.4l5.1-16.3 5-12.3 4.3-13.1 1.6-3.2 1.1-.9-1.6-.3-1.1 .8-1.6 3.5-4.3 13.8-4.6 11.8-5.5 18.6zM514.1 759.3l1.2 .9 1.2 2.4 5.8 19 1.6 3 1.9 2.2 2.3 1.3 3.2 .9 24.5 4.6 1.6-.9-24.5-4.6-3.2-.9-2.3-1.3-1.9-2.1-1.6-2.8-5.8-18.1-1.2-2.4-1.2-.9z"/><path transform="translate(13.52 -7.57)" d="M400.2 764.6l24.9 4.6 3.1 .2 2.3-.7 1.6-.8-2.3 .6-3.1-.2-24.9-4.6zM432.1 767.9l1.6-1.3 1.5-2.3 5.9-16.5 1.1-1.9 1.2-.5-1.6-.3-1.2 .5-1.2 2.1-5.8 17.3-1.5 2.4-1.6 1.3zM441.8 745.1l1.2 1.3 1.1 2.9 4.7 17.1 4.3 12.5 5.4 21.7 1.6 2.5 1.1-.9 1.6-2.4-1.1 .8-1.6-2.4-4.7-17.9-5-14.5-4.3-15.1-1.5-4-1.2-1.3zM462.8 799.8l1.6-4.1 3.9-14.3 4.3-11.6 4.2-13.8 1.6-3.2 1.2-.6-1.6-.3-1.6 1.3-1.6 3.9-3.8 13.2-4.3 12.3-3.9 15.2-1.6 4.4zM478 751.9l1.5 1.9 1.6 4.5 3.9 14.7 4.2 13.8 4.7 19.5 1.6 3.3 1.1-.3 1.6-2.4-1.1 .2-1.6-3.1-4.7-18.4-4.2-13.2-3.9-14.1-1.6-4.3-1.5-1.8zM498.2 806.9l1.6-3.6 4.3-15.1 4.6-11.5 4.3-13.6 1.6-3.4 1.1-.8-1.6-.3-1.1 .9-1.6 3.5-4.3 14.2-4.6 12.2-4.3 16.1-1.6 3.8zM514.1 758.6l1.2 .9 1.2 2.5 5.8 19.5 1.6 3 1.9 2.3 2.3 1.3 3.2 .9 24.5 4.6 1.6-.9-24.5-4.6-3.2-.9-2.3-1.3-1.9-2.2-1.6-2.9-5.8-18.6-1.2-2.4-1.2-.9z"/><path transform="translate(12.59 -7.05)" d="M400.2 764.6l24.9 4.6 3.1 .2 2.3-.7 1.6-.8-2.3 .6-3.1-.2-24.9-4.6zM432.1 767.9l1.6-1.3 1.5-2.4 5.9-17 1.1-2 1.2-.5-1.6-.2-1.2 .4-1.2 2.2-5.8 17.7-1.5 2.5-1.6 1.4zM441.8 744.5l1.1 1.3 1.2 3 4.7 17.4 4.3 12.9 5.4 22.3 1.2 2.3 1.1-.1 1.6-2.4-1.1 .1-1.2-2.2-4.7-18.5-5-15-4.3-15.5-1.5-4.1-1.2-1.3zM462.4 801.2l1.6-3.5 4.3-16.1 4.3-12 4.2-14.1 1.6-3.3 1.2-.7-1.6-.3-1.2 .7-1.6 3.5-4.2 14.8-4.3 12.6-4.3 17.1-1.6 3.7zM478 751.2l1.5 1.9 1.6 4.7 8.1 29.2 4.7 20.1 1.6 3.3 1.1-.3 1.6-2.3-1.1 .2-1.6-3.2-4.7-19-4.2-13.6-3.9-14.4-1.6-4.5-1.5-1.8zM498.2 807.8l1.6-3.7 4.3-15.8 4.6-11.8 4.3-14 1.6-3.4 1.1-.9-1.6-.3-1.1 .9-1.6 3.7-4.3 14.6-4.6 12.4-4.3 16.7-1.6 3.9zM514.1 757.9l1.2 .9 1.2 2.6 5.8 20 1.6 3.1 1.9 2.2 2.3 1.4 3.2 .9 24.5 4.6 1.6-.9-24.5-4.6-3.2-.9-2.3-1.3-1.9-2.2-1.6-3-5.8-19.1-1.2-2.5-1.2-.9z"/><path transform="translate(11.65 -6.52)" d="M400.2 764.6l24.9 4.6 3.1 .2 2.3-.7 1.6-.9-2.3 .7-3.1-.2-24.9-4.6zM432.1 767.8l1.6-1.3 1.5-2.5 5.9-17.4 1.1-2.1 1.2-.5-1.6-.2-1.2 .5-1.1 2.2-5.9 18.2-1.5 2.6-1.6 1.4zM441.8 743.8l1.2 1.4 1.1 3 4.7 17.8 4.3 13.2 5.4 22.9 1.2 2.4 1.2-.1 1.6-2.3-1.2 .1-1.2-2.3-5.4-21.8-4.3-12.7-4.7-17.1-1.1-3-1.2-1.3zM462.5 802.1l1.5-3.7 4.3-16.6 4.3-12.4 4.2-14.5 1.6-3.4 1.2-.7-1.6-.2-1.2 .7-1.6 3.6-4.2 15.1-4.3 12.9-4.3 17.6-1.5 3.9zM478 750.6l1.5 1.9 1.6 4.8 8.1 29.8 4.7 20.7 1.6 3.5 1.1-.4 1.6-2.3-1.1 .3-1.6-3.3-4.6-19.6-4.3-14-3.9-14.8-1.6-4.5-1.5-1.9zM498.2 808.6l1.6-3.8 4.3-16.3 4.6-12.2 4.3-14.3 1.6-3.6 1.1-.9-1.6-.2-1.1 .9-1.6 3.8-4.3 14.9-4.6 12.8-4.3 17.2-1.6 4zM514.1 757.3l1.2 .9 1.2 2.7 5.8 20.3 1.6 3.2 1.9 2.3 2.3 1.4 3.2 .9 24.5 4.6 1.6-.9-24.5-4.6-3.1-.9-2.4-1.4-1.9-2.2-1.6-3-5.8-19.6-1.2-2.6-1.2-.9z"/><path transform="translate(10.72 -6)" d="M400.2 764.6l24.5 4.5 3.1 .3 2.3-.5 1.6-.9-2.3 .5-3.1-.3-24.5-4.5zM431.7 768l2-1.6 1.9-3.4 5.1-15.9 1.1-2.7 1.2-1.1-1.6-.1-1.2 1.1-1.1 2.8-5.1 16.6-1.9 3.5-2 1.7zM441.4 743.2l.8 .3 .8 1.1 1.5 4.4 4.3 16.9 4.7 14.8 5 22.1 1.2 2.5 1.1-.1 1.7-2.3-1.2 .1-1.2-2.3-4.7-19.7-5-15.8-4.3-16.2-1.5-4.3-.8-1.1-.8-.3zM462.5 802.9l1.5-3.7 4.3-17.3 4.3-12.7 4.2-14.9 1.6-3.4 1.2-.8-1.6-.1-1.2 .8-1.6 3.6-4.2 15.4-4.3 13.3-4.3 18.1-1.6 4zM478 750l1.5 2 1.6 4.8 8.1 30.5 4.7 21.2 1.6 3.5 1.1-.3 1.6-2.2-1.1 .3-1.6-3.4-4.7-20.3-8.1-29.4-1.6-4.6-1.5-2zM498.2 809.5l1.6-4 4.3-16.8 4.6-12.6 4.3-14.6 1.6-3.7 1.1-.9-1.6-.2-1.1 1-1.6 3.8-4.3 15.2-4.6 13.1-4.3 17.8-1.6 4.1zM514.1 756.7l1.2 1 1.2 2.7 5.8 20.7 1.6 3.2 1.9 2.4 2.3 1.4 3.2 .9 24.5 4.6 1.6-.9-24.5-4.6-3.2-.9-2.3-1.4-1.9-2.3-1.6-3.1-5.8-20-1.2-2.6-1.2-.9z"/><path transform="translate(9.79 -5.48)" d="M400.2 764.6l24.5 4.5 3.1 .3 2.3-.6 1.6-.8-2.3 .5-3.1-.3-24.5-4.5zM431.7 768l2-1.6 1.9-3.5 5.1-16.4 1.1-2.7 1.2-1.1-1.6 0-1.2 1.1-1.1 2.8-5.1 17-1.9 3.6-2 1.6zM441.4 742.7l.8 .3 .8 1.1 1.5 4.5 4.3 17.1 4.7 15.1 5 22.7 1.2 2.5 .4 .3 .7-.4 1.6-2.2-1.1 .2-1.2-2.5-4.7-20.2-5-16.1-4.3-16.6-1.5-4.4-.8-1.1-.8-.3zM462.4 803.7l1.6-3.9 4.3-17.7 4.3-13 4.2-15.3 1.6-3.5 1.2-.8-1.6 0-.8 .3-.8 1.1-1.6 4.3-3.5 13.2-4.6 14.8-4.3 18.6-1.6 4.1zM478 749.5l1.5 2 1.6 4.9 8.1 31 4.7 21.7 1.6 3.7 1.1-.4 1.6-2.1-1.1 .3-1.6-3.5-4.7-20.8-8.1-30.1-1.6-4.7-1.5-2zM498.2 810.3l1.6-4.1 4.3-17.4 4.6-12.8 4.3-15 1.6-3.8 1.1-1-1.6 0-1.1 1-1.6 3.9-4.3 15.5-4.6 13.4-4.3 18.2-1.6 4.2zM514.1 756.2l1.2 .9 1.2 2.8 5.8 21.1 1.6 3.3 1.9 2.4 2.3 1.4 3.2 .9 24.5 4.6 1.6-.9-24.5-4.6-3.2-.9-2.3-1.4-1.9-2.3-1.6-3.2-5.8-20.5-1.2-2.6-1.2-1z"/><path transform="translate(8.86 -4.96)" d="M400.2 764.6l24.5 4.5 3.1 .3 2.3-.6 1.6-.8-2.3 .5-3.1-.3-24.5-4.5zM431.7 768l2-1.7 1.9-3.5 5.1-16.7 1.1-2.8 1.2-1.2-1.6 .1-1.2 1.1-1.1 2.9-5.1 17.3-1.9 3.6-2 1.7zM441.4 742.2l.8 .3 .7 1.1 1.6 4.6 4.3 17.4 4.7 15.4 5 23.1 1.2 2.6 .4 .3 .7-.5 1.6-2-1.1 .1-1.2-2.5-5-22.3-4.7-14.9-4.3-16.9-1.5-4.4-.8-1.2-.8-.3zM462.4 804.5l1.6-4 4.3-18.3 4.3-13.3 4.2-15.5 1.6-3.7 1.2-.7-1.6 0-.8 .3-.8 1.1-1.6 4.4-3.5 13.4-4.6 15.2-4.3 19-1.6 4.1zM478 749l1.5 2 1.6 5 8.1 31.6 4.7 22.1 1.6 3.7 1.1-.3 1.6-2.1-1.1 .4-1.6-3.6-4.7-21.4-8.1-30.6-1.6-4.8-1.5-2zM498.2 811l1.6-4.2 4.3-17.8 4.6-13.2 4.3-15.3 1.6-3.9 1.1-.9-1.6 0-1.1 1-1.6 4-4.3 15.8-4.6 13.6-4.3 18.6-1.6 4.4zM514.1 755.7l1.2 1 1.2 2.8 5.8 21.4 1.6 3.3 1.9 2.5 2.3 1.4 3.2 .9 24.5 4.6 1.6-.9-24.5-4.6-3.2-.9-2.3-1.4-1.9-2.4-1.6-3.2-5.8-20.9-1.2-2.7-1.2-.9z"/><path transform="translate(7.92 -4.44)" d="M400.2 764.6l24.5 4.5 3.1 .3 2.3-.6 1.6-.9-2.3 .6-3.1-.3-24.5-4.5zM431.7 767.9l2-1.6 1.9-3.6 5.1-17.1 1.1-2.8 1.2-1.2-1.6 .1-1.2 1.2-1.1 2.9-5.1 17.6-1.9 3.7-2 1.7zM441.4 741.7l.8 .3 .8 1.2 1.5 4.6 4.3 17.7 4.7 15.6 5 23.6 1.2 2.6 .4 .3 .8-.5 1.6-1.9-.8 .4-.4-.3-1.2-2.5-5-22.8-4.7-15.2-4.3-17.2-1.5-4.5-.8-1.2-.8-.3zM462.5 805.2l1.5-4.1 4.3-18.7 4.7-15 3.5-13.2 1.5-4.3 .8-1.2 .8-.3-1.6 .1-.8 .3-.8 1.2-1.5 4.5-3.5 13.6-4.7 15.4-4.3 19.4-1.5 4.2zM478 748.5l1.5 2.1 1.6 5.1 8.1 32 4.7 22.5 1.6 3.8 .4 .2 .7-.5 1.6-2-1.1 .4-1.6-3.7-4.6-21.8-8.2-31.2-1.6-4.9-1.5-2.1zM498.2 811.7l1.6-4.3 4.3-18.3 4.6-13.4 4.3-15.6 1.6-4 1.1-1-1.6 .1-1.1 1.1-1.2 2.8-4.7 17.3-4.2 12.5-4.7 20.3-1.6 4.5zM514.1 755.2l1.2 1 1.2 2.9 5.8 21.7 1.6 3.4 1.9 2.4 2.3 1.5 3.2 .9 24.5 4.6 1.6-.9-24.5-4.6-3.1-.9-2.4-1.4-1.9-2.4-1.6-3.3-5.8-21.2-1.2-2.8-1.2-1z"/><path transform="translate(6.99 -3.91)" d="M400.2 764.6l24.5 4.5 3.1 .3 2.3-.6 1.6-.9-2.3 .6-3.1-.3-24.5-4.5zM431.7 767.9l2-1.7 1.9-3.7 5.1-17.3 1.1-2.9 1.2-1.2-1.6 .2-1.2 1.2-1.1 3-5.1 17.8-1.9 3.7-2 1.8zM441.4 741.3l.8 .3 .8 1.2 1.5 4.7 4.3 17.9 4.7 15.8 5 24 1.2 2.6 .4 .3 .7-.4 1.7-1.9-.8 .4-.4-.2-1.2-2.6-5-23.3-4.7-15.4-4.3-17.5-1.5-4.6-.8-1.2-.8-.3zM462.5 805.8l1.5-4.2 4.3-19.1 4.7-15.2 3.5-13.5 1.5-4.4 1.2-1.4-1.6 .2-1.2 1.4-1.5 4.6-3.5 13.7-4.7 15.7-4.3 19.7-1.6 4.4zM477.6 748.2l.8 .1 .7 1.1 1.6 4.4 8.5 34 5.1 24.3 1.2 2.5 .4 .2 .7-.6 1.6-1.8-.7 .5-.4-.2-1.2-2.4-5.1-23.6-8.5-33.2-1.6-4.3-.7-1.1-.8-.1zM498.2 812.4l1.6-4.5 4.3-18.7 4.6-13.7 4.3-15.8 1.6-4 1.1-1-1.6 .1-1.1 1.1-1.2 2.8-4.7 17.6-4.2 12.7-4.7 20.6-1.6 4.6zM514.1 754.8l1.2 1 1.2 2.9 5.8 22.1 1.6 3.3 1.9 2.5 2.3 1.5 3.2 .9 24.5 4.6 1.6-.9-24.5-4.6-3.2-.9-2.3-1.5-1.9-2.4-1.6-3.3-5.8-21.6-1.2-2.8-1.2-.9z"/><path transform="translate(6.06 -3.39)" d="M400.2 764.6l24.5 4.5 3.1 .3 2.3-.6 1.6-.9-2.3 .6-3.1-.3-24.5-4.5zM431.7 767.9l2-1.7 1.9-3.8 5.1-17.6 1.1-2.9 1.2-1.2-1.6 .3-1.2 1.2-1.1 3-5.1 18-1.9 3.8-2 1.8zM441.4 741l.8 .3 .8 1.2 1.5 4.7 4.3 18.1 4.7 16 5 24.3 1.2 2.7 .4 .3 .7-.5 1.7-1.7-.8 .4-.4-.2-1.2-2.7-5-23.7-4.7-15.6-4.3-17.8-1.5-4.6-.8-1.2-.8-.3zM462.5 806.4l1.5-4.3 4.3-19.5 4.7-15.5 3.5-13.6 1.5-4.5 1.2-1.4-1.6 .2-1.2 1.5-1.5 4.6-3.6 13.9-4.6 15.9-4.3 20-1.6 4.4zM477.6 747.8l.8 .2 .7 1.1 1.6 4.5 8.5 34.3 4.7 23.2 1.2 3.4 1.1 .6 1.6-1.7-1.1-.6-1.2-3.3-4.7-22.7-8.5-33.6-1.6-4.4-.7-1.1-.8-.1zM497.8 813.4l1.6-3.5 4.7-20.5 4.6-14 4.3-16.1 1.6-4 1.1-1.1-1.6 .3-1.1 1.1-1.6 4.1-4.3 16.5-4.6 14.2-4.7 21.1-1.6 3.6zM514.1 754.5l1.2 1 1.2 2.9 5.8 22.3 1.6 3.4 1.9 2.5 2.3 1.5 3.2 .9 24.5 4.6 1.6-.9-24.5-4.6-3.2-.9-2.3-1.5-1.9-2.4-1.6-3.4-5.8-21.8-1.2-2.9-1.2-1z"/><path transform="translate(5.13 -2.87)" d="M400.2 764.6l24.5 4.5 3.1 .3 2.3-.6 1.6-.9-2.3 .6-3.1-.3-24.5-4.5zM431.7 767.9l2-1.8 1.9-3.7 5.1-17.9 1.1-2.9 1.2-1.3-1.6 .4-1.2 1.2-1.1 3.1-5.1 18.1-1.9 3.9-2 1.8zM441.4 740.7l.8 .3 .8 1.2 1.5 4.8 4.3 18.2 4.7 16.2 5 24.6 1.2 2.7 .4 .3 .7-.5 1.6-1.6-.7 .4-.4-.2-1.2-2.7-5-24.1-4.7-15.8-4.3-18-1.5-4.7-.8-1.2-.8-.3zM462.4 806.9l1.6-4.4 4.3-19.8 4.7-15.7 3.5-13.8 1.5-4.5 1.2-1.5-1.6 .4-1.2 1.5-1.6 4.6-3.5 14.1-4.6 16-4.3 20.2-1.6 4.5zM477.6 747.6l.7 .1 .8 1.1 1.6 4.5 8.5 34.7 4.7 23.5 1.2 3.4 1.1 .6 1.6-1.6-1.1-.6-1.2-3.4-4.7-23-8.5-34-1.6-4.5-.7-1.1-.8-.1zM497.8 813.9l1.6-3.5 4.7-20.9 4.6-14.2 4.3-16.3 1.6-4.1 1.1-1.1-1.6 .4-1.1 1.1-1.6 4.2-4.3 16.6-4.6 14.4-4.7 21.4-1.6 3.6zM514.1 754.2l1.2 1 1.2 3 5.8 22.4 1.6 3.5 1.9 2.5 2.3 1.5 3.2 .9 24.5 4.6 1.6-.9-24.5-4.6-3.2-.9-2.3-1.5-1.9-2.5-1.6-3.4-5.8-22.1-1.2-2.9-1.2-1z"/><path transform="translate(4.2 -2.35)" d="M400.2 764.6l24.9 4.6 3.1 .1 1.9-.5 1.6-.9-2.3 .6-3.1-.3-24.5-4.5zM431.7 767.9l2-1.8 1.9-3.8 5.1-18 1.1-3.1 1.2-1.2-1.6 .5-1.2 1.2-1.1 3.1-5.1 18.3-1.9 3.9-2 1.8zM441.4 740.5l1.2 .8 1.5 4.1 4.7 19.8 4.7 16.2 4.6 23.4 1.2 3.6 1.2 .8 1.6-1.5-1.2-.8-1.2-3.5-4.6-23-4.7-16-4.7-19.5-1.5-4.1-1.2-.8zM462.1 807.7l1.5-3.3 4.7-21.6 4.6-15.9 3.5-13.9 1.6-4.6 1.2-1.5-1.6 .4-1.2 1.6-1.6 4.6-3.5 14.2-4.6 16.1-4.7 22-1.5 3.4zM477.6 747.3l.7 .2 .8 1.1 1.6 4.5 8.5 34.9 4.7 23.7 1.2 3.5 1.1 .6 1.6-1.5-1.1-.6-1.2-3.4-4.7-23.3-8.5-34.4-1.6-4.5-.7-1.1-.8-.1zM497.8 814.3l1.6-3.6 4.7-21.2 4.6-14.2 4.3-16.6 1.6-4.1 1.1-1.1-1.6 .5-1.1 1.1-1.6 4.2-4.3 16.7-4.6 14.6-4.7 21.6-1.6 3.6zM514.1 754l1.2 1 1.2 3 5.8 22.6 1.6 3.5 1.9 2.5 1.9 1.3 3.2 1 24.9 4.7 1.6-.9-24.5-4.6-3.2-.9-2.3-1.5-1.9-2.5-1.6-3.4-5.8-22.4-1.2-2.9-1.2-1z"/><path transform="translate(3.26 -1.83)" d="M400.2 764.6l24.9 4.6 3.1 .1 1.9-.5 1.6-.9-1.9 .5-3.1-.1-24.9-4.6zM431.7 767.9l2-1.8 1.9-3.9 5.1-18.2 1.1-3 1.2-1.3-1.6 .6-1.2 1.3-1.1 3-5.1 18.5-1.9 3.8-2 1.9zM441.4 740.3l1.2 .8 1.5 4.1 4.7 19.9 4.7 16.4 4.6 23.5 1.2 3.6 1.2 .8 1.6-1.3-1.2-.8-1.2-3.6-4.6-23.2-4.7-16.2-4.7-19.7-1.5-4-1.2-.9zM462.1 808.1l1.5-3.4 4.7-21.8 4.7-16.1 3.5-14.1 1.5-4.6 1.2-1.5-1.6 .6-1.2 1.5-1.5 4.7-3.5 14.2-4.7 16.3-4.7 22.1-1.5 3.4zM477.6 747.2l.8 .1 .7 1.1 1.6 4.6 8.5 35.1 4.7 23.9 1.2 3.4 .8 .8 .3-.2 1.7-1.3-1.2-.6-1.2-3.4-4.6-23.6-8.6-34.7-1.6-4.6-.7-1.1-.8-.1zM497.9 814.7l1.9-5.2 4.7-21.3 4.2-13 4.7-18 2-3.8-1.6 .6-2 3.9-4.7 18.1-4.2 13.2-4.7 21.6-2 5.2zM513.8 754l1.1 .3 1.2 2.3 5.8 22.8 2 4.7 1.9 2.5 2 1.3 3.1 1 24.9 4.7 1.6-.9-24.9-4.7-3.1-1-2-1.3-1.9-2.5-2-4.6-5.8-22.6-1.2-2.3-1.1-.3z"/><path transform="translate(2.33 -1.3)" d="M400.2 764.6l24.9 4.6 3.1 .1 1.9-.6 1.6-.8-1.9 .5-3.1-.1-24.9-4.6zM431.7 767.9l2-1.9 1.9-3.8 5.1-18.4 1.1-3 1.2-1.3-1.6 .7-1.2 1.3-1.1 3.1-5.1 18.4-1.9 3.9-2 1.8zM441.4 740.2l1.2 .8 1.5 4.1 4.7 20 4.7 16.4 4.6 23.6 1.2 3.7 1.2 .8 1.6-1.2-1.2-.8-1.2-3.7-4.6-23.4-4.7-16.2-4.7-19.9-1.5-4.1-1.2-.8zM462.1 808.4l1.5-3.4 4.7-22.1 4.7-16.1 3.5-14.2 1.5-4.7 1.2-1.5-1.6 .7-1.2 1.5-1.5 4.7-3.5 14.3-4.7 16.3-4.7 22.2-1.5 3.5zM477.6 747.1l.8 .1 .7 1.1 1.6 4.6 8.5 35.2 4.7 24 1.2 3.5 .8 .7 .3-.1 1.6-1.2-1.1-.6-1.2-3.5-4.7-23.8-8.5-34.9-1.6-4.6-.7-1.1-.8-.1zM497.8 815l2-5.2 4.7-21.6 4.2-13.1 4.7-18 2-3.9-1.6 .6-2 4-4.7 18.2-4.2 13.2-4.7 21.7-2 5.3zM513.8 753.8l1.1 .4 1.2 2.3 5.8 22.9 2 4.6 1.9 2.6 2 1.3 3.1 1 24.9 4.7 1.6-.9-24.9-4.7-3.1-1-2-1.3-1.9-2.5-2-4.6-5.8-22.8-1.2-2.3-1.1-.3z"/><path transform="translate(1.4 -0.78)" d="M400.2 764.6l24.9 4.6 3.1 .1 1.9-.6 1.6-.9-1.9 .6-3.1-.1-24.9-4.6zM431.7 767.8l2-1.8 1.9-3.9 5.1-18.4 1.1-3.1 1.2-1.2-1.6 .7-1.2 1.3-1.1 3.1-5.1 18.5-1.9 3.9-2 1.8zM441.4 740.1l1.2 .9 1.5 4.1 4.7 20 4.7 16.4 4.6 23.6 1.2 3.7 1.2 .9 1.6-1.1-1.2-.8-1.2-3.7-4.6-23.5-4.7-16.4-4.7-19.9-1.5-4.1-1.2-.8zM462.1 808.6l1.5-3.4 4.7-22.2 4.7-16.3 3.5-14.2 1.5-4.7 1.2-1.6-1.6 .8-1.2 1.5-1.6 4.8-3.5 14.3-4.6 16.3-4.7 22.3-1.5 3.5zM477.6 747l.8 .2 .7 1 1.6 4.7 8.5 35.2 4.7 24 1.2 3.5 .8 .8 .3-.1 1.6-1.1-.3 .1-.8-.7-1.2-3.5-4.7-23.9-8.5-35.1-1.6-4.6-.7-1.1-.8-.2zM497.8 815.2l2-5.3 4.7-21.6 4.2-13.2 4.7-18.2 2-3.9-1.7 .8-1.9 3.9-4.7 18.3-4.2 13.2-4.7 21.8-2 5.3zM513.7 753.8l1.2 .3 1.2 2.4 5.8 22.9 2 4.6 1.9 2.6 2 1.3 3.1 1 24.9 4.7 1.6-.9-24.9-4.7-3.1-1-2-1.3-1.9-2.6-2-4.6-5.8-22.8-1.2-2.4-1.1-.3z"/><path transform="translate(0.47 -0.26)" d="M400.8 764.3l24.9 4.5 3.1 .1 2-.5 .9-.6-1.9 .6-3.1-.1-24.9-4.6zM431.7 767.8l2-1.8 1.9-3.9 5.1-18.5 1.9-4.1-.9 .5-2 4.1-5 18.5-2 3.9-1.9 1.9zM441.7 740l.8-.2 .7 .8 1.6 4.1 4.7 20 4.6 16.4 4.7 23.7 1.2 3.6 1.1 .9 1-.6-1.2-.8-1.2-3.7-4.6-23.6-4.7-16.4-4.7-20-1.5-4.1-.8-.8-.8 .2zM462.1 808.7l1.5-3.4 4.7-22.3 4.6-16.3 3.6-14.3 1.5-4.7 1.2-1.6-1 .5-1.1 1.6-1.6 4.7-3.5 14.3-4.7 16.3-4.6 22.3-1.6 3.5zM478.2 746.6l.8 .2 .8 1.1 1.6 4.6 8.5 35.2 4.7 24.1 1.1 3.5 .8 .7 .4-.1 .9-.6-.3 .2-.8-.8-1.2-3.5-4.7-24-8.5-35.2-1.6-4.6-.7-1.1-.8-.2zM497.8 815.3l2-5.3 4.7-21.7 4.2-13.2 4.7-18.3 2-3.9-1 .5-1.9 3.9-4.7 18.3-4.3 13.2-4.6 21.8-2 5.3zM514.4 753.4l1.2 .3 1.2 2.4 5.8 22.9 1.9 4.7 2 2.5 1.9 1.3 3.1 1 24.9 4.8 1-.6-24.9-4.7-3.1-1-2-1.3-1.9-2.6-2-4.6-5.8-22.9-1.2-2.3-1.1-.4z"/></g>
<g text-anchor="middle" font-size="12"><text x="417.0" y="844.3">20</text><text x="447.5" y="850.0">10</text><text x="478.0" y="855.7">0</text><text x="506.5" y="861.4">-10</text><text x="537.0" y="867.1">-20</text><text x="570.5" y="865.4">0</text><text x="585.4" y="857.0">1</text><text x="600.3" y="848.7">2</text><text x="615.2" y="840.3">3</text><text x="630.2" y="832.0">4</text><text x="645.1" y="823.6">5</text><text x="660.0" y="815.3">6</text></g>
<g text-anchor="middle" font-size="13.1"><text x="456.0" y="866.0">z</text><text x="640.0" y="846.0">ρ</text><text x="368.3" y="722.5" text-anchor="start"><tspan class="s">Φ</tspan>(z,ρ)</text></g>
<g text-anchor="end" font-size="12"><text x="394.8" y="794.8">-0.8</text><text x="394.8" y="780.8">-0.4</text><text x="394.8" y="766.8">0</text><text x="394.8" y="752.8">0.4</text><text x="394.8" y="738.7">0.8</text></g>
<!-- o -->
<g fill="none" stroke="#000" stroke-width=".55">
<path d="M714.8 839.9L849.2 864.7L928.3 821.1L793.9 796.3Z"/>
<path d="M728.7 842.5L730.2 841.6M807.8 798.9L806.3 799.7M755.3 847.4L756.8 846.6M834.4 803.8L832.9 804.6M782.0 852.3L783.5 851.5M861.1 808.7L859.6 809.5M808.7 857.2L810.2 856.4M887.8 813.6L886.3 814.4M835.3 862.1L836.8 861.3M914.4 818.5L912.9 819.4M862.4 857.4L859.0 856.8M728.0 832.6L731.3 833.3M875.6 850.2L872.2 849.5M741.2 825.4L744.5 826.0M888.8 842.9L885.4 842.3M754.3 818.1L757.7 818.7M901.9 835.6L898.6 835.0M767.5 810.8L770.9 811.5M915.1 828.4L911.8 827.7M780.7 803.6L784.1 804.2"/>
</g>
<g fill="none" stroke-width=".42">
<path d="M727.4 842.2l42.1-22.3 41.6-20.4M911.1 817.9l-16.5 10.6-18.3 11.1-39.7 22.8" stroke="#00c000" stroke-dasharray="2 1"/>
<path d="M744.6 845.4l19.6-10 8.6-3.7 7.6-2.8 6.7-1.7 6.4-.2 3-.4 15.3-3.5 4.4-.4 6.8 .8 8-.3 3.4 .2 2.2 .9 3.2 2.3 4.7 1.2 1.5 .7 .6 1 0 .8-1.6 4.2-.3 1.4 .6 .9 2.3 1.6-.2 1.3-.9 1.4-3.9 3.5-5.9 4.2-8.3 5.3-9 5.1" stroke="#0000ff" stroke-dasharray="1 2"/>
<path d="M748.5 846.1l7.9-3.9 3.2-1 .7 0-.1 .4-1.7 1.5-6 3.8M763.1 848.8l12.4-5.9 4.6-1.5 1 .3-1.1 1.4-2.1 1.7-8.5 5.2M778.5 851.7l6.9-3.6 6.4-2.9 4.1-1.4 1.2-.2 1.1 .2-.7 1.2-2.4 2-9.6 5.9M794.6 854.6l12.4-5.9 4.3-1.4 1.3 .1-.9 1.3-2.3 1.9-8.5 5.2M811.5 857.7l8.2-3.9 2.1-.8 1.7-.1-2.4 2.2-5.6 3.4" stroke="#ff00ff" stroke-dasharray=".7 .5"/>
<path d="M765.6 849.3l2.3-1.2 1.1-.2-2.3 1.6M781.3 852.2l4.3-1.9-.7 .8-2.2 1.3M797.3 855.1l3.1-1.4 0 .4-2 1.2" stroke="#00ffff" stroke-dasharray="2.5 1 .6 1"/>
</g>
<g fill="none" stroke="#000" stroke-width=".6">
<path d="M714.5 839.9L714.5 752.0M714.5 810.5L718.0 810.5M714.5 798.5L718.0 798.5M714.5 787.5L718.0 787.5M714.5 775.5L718.0 775.5M714.5 763.5L718.0 763.5M714.5 752.5L718.0 752.5"/>
</g>
<linearGradient id="Po" gradientUnits="userSpaceOnUse" x1="714.80" y1="789.96" x2="720.84" y2="757.20"><stop offset="0" stop-color="#ecdce6"/><stop offset="0.038" stop-color="#e2cdd9"/><stop offset="0.075" stop-color="#d4b9c6"/><stop offset="0.125" stop-color="#c3a0ac"/><stop offset="0.188" stop-color="#aa8087"/><stop offset="0.251" stop-color="#91625f"/><stop offset="0.313" stop-color="#7a463a"/><stop offset="0.364" stop-color="#642816"/><stop offset="0.414" stop-color="#49080b"/><stop offset="0.419" stop-color="#46050a"/><stop offset="0.486" stop-color="#370050"/><stop offset="0.561" stop-color="#32008c"/><stop offset="0.639" stop-color="#3200be"/><stop offset="0.713" stop-color="#2d00e6"/><stop offset="0.776" stop-color="#2300f7"/><stop offset="0.79" stop-color="#1e00ff"/><stop offset="0.833" stop-color="#0058ff"/><stop offset="0.879" stop-color="#0096ff"/><stop offset="0.914" stop-color="#00cdff"/><stop offset="0.937" stop-color="#00ebff"/><stop offset="0.948" stop-color="#00f8ff"/><stop offset="0.955" stop-color="#00ffff"/><stop offset="1" stop-color="#00ffff"/></linearGradient>
<g stroke-width=".4" stroke-linejoin="round" fill="url(#Po)" stroke="url(#Po)"><path transform="translate(78.28 -43.15)" d="M714.2 756.8l15.8 4.2 26.5 8 24.9 5.5 24.9 3.7 26.5 1.7 15.8 1.7 1.4-.8-15.8-1.7-26.5-1.8-24.9-3.6-24.8-5.5-26.6-8-15.8-4.2z"/><path transform="translate(77.45 -42.69)" d="M714.2 756.8l15.8 4.2 26.5 8.1 24.9 5.5 24.9 3.6 26.5 1.7 15.8 1.7 1.4-.8-15.8-1.7-26.5-1.7-24.9-3.7-24.8-5.5-26.6-8-15.8-4.2z"/><path transform="translate(76.63 -42.24)" d="M714.2 756.8l15.8 4.2 26.2 8 25.2 5.6 25.2 3.7 26.2 1.6 15.8 1.7 1.4-.8-15.8-1.7-26.5-1.7-24.9-3.6-24.8-5.6-26.6-8-15.8-4.2z"/><path transform="translate(75.8 -41.78)" d="M714.2 756.8l15.8 4.2 26.2 8.1 25.2 5.6 25.2 3.7 26.2 1.5 15.8 1.7 1.4-.8-15.8-1.7-26.5-1.6-24.9-3.7-24.8-5.5-26.6-8.1-15.8-4.2z"/><path transform="translate(74.98 -41.33)" d="M714.2 756.8l16.1 4.3 25.9 8 25.2 5.6 25.2 3.7 25.9 1.5 16.1 1.7 1.4-.8-15.8-1.6-26.2-1.7-25.2-3.6-25.2-5.7-26.2-8-15.8-4.2z"/><path transform="translate(74.16 -40.88)" d="M714.2 756.8l16.1 4.3 25.9 8.1 25.2 5.6 25.2 3.7 25.9 1.4 16.1 1.7 1.4-.8-16.1-1.7-25.9-1.5-25.2-3.7-25.2-5.6-25.9-8-16.1-4.3z"/><path transform="translate(73.33 -40.42)" d="M714.2 756.8l16.1 4.3 25.6 8 25.5 5.7 25.5 3.7 25.6 1.5 16.1 1.6 1.4-.8-16.1-1.6-25.9-1.6-25.2-3.6-25.2-5.7-25.8-8-16.2-4.3z"/><path transform="translate(72.51 -39.97)" d="M714.2 756.8l16.1 4.3 25.6 8.1 25.5 5.7 25.5 3.7 25.6 1.4 16.1 1.6 1.4-.8-16.1-1.6-25.9-1.5-25.2-3.7-25.2-5.6-25.8-8.1-16.2-4.3z"/><path transform="translate(71.68 -39.51)" d="M714.2 756.8l16.1 4.3 25.6 8.1 25.5 5.7 25.5 3.7 25.6 1.4 16.1 1.6 1.4-.8-16.1-1.6-25.5-1.4-25.6-3.7-25.5-5.8-25.5-8-16.2-4.3z"/><path transform="translate(70.86 -39.06)" d="M714.2 756.8l16.5 4.4 24.8 8 25.9 5.8 25.9 3.7 24.8 1.3 16.5 1.6 1.4-.8-16.1-1.6-25.5-1.4-25.6-3.7-25.5-5.7-25.5-8.1-16.2-4.3z"/><path transform="translate(70.04 -38.6)" d="M714.2 756.8l16.5 4.4 24.8 8 25.9 5.8 25.9 3.7 24.8 1.3 16.5 1.6 1.4-.8-16.1-1.6-25.5-1.3-25.6-3.7-25.5-5.8-25.6-8.1-16.1-4.3z"/><path transform="translate(69.21 -38.15)" d="M714.2 756.8l16.5 4.5 24.8 8 25.9 5.8 14.8 2.4 11.1 1.3 24.8 1.2 16.5 1.6 1.4-.8-16.4-1.6-24.9-1.3-25.9-3.7-25.8-5.8-24.9-7.9-16.5-4.5z"/><path transform="translate(68.39 -37.7)" d="M714.2 756.8l16.5 4.5 24.5 7.9 11.1 2.9 15.1 3.1 15.1 2.4 11.1 1.3 24.5 1.1 16.5 1.6 1.4-.8-16.4-1.6-24.9-1.2-25.9-3.7-25.8-5.9-24.9-7.9-16.5-4.5z"/><path transform="translate(67.56 -37.24)" d="M714.2 756.8l16.5 4.5 24.5 8 11.1 2.8 15.1 3.1 15.1 2.5 11.1 1.2 24.5 1.1 16.5 1.6 1.4-.8-16.4-1.6-24.6-1.1-11.1-1.3-15.1-2.5-15.1-3.1-11.1-2.8-24.5-7.9-16.5-4.5z"/><path transform="translate(66.74 -36.79)" d="M714.2 756.8l16.5 4.5 24.2 7.9 11.4 3 15.1 3.1 15.1 2.4 11.5 1.3 24.1 1 16.5 1.6 1.4-.7-16.4-1.7-24.6-1.1-11.1-1.2-15.1-2.5-15.1-3.1-11.1-2.9-24.5-7.9-16.5-4.4z"/><path transform="translate(65.92 -36.33)" d="M714.2 756.8l16.8 4.6 23.9 7.9 11.4 2.9 15.1 3.1 15.1 2.5 11.4 1.3 23.9 .9 16.8 1.6 1.4-.7-16.4-1.7-24.6-1-11.1-1.3-15.1-2.4-15.1-3.2-11.1-2.8-24.5-8-16.5-4.4z"/><path transform="translate(65.09 -35.88)" d="M714.2 756.8l16.8 4.6 23.5 7.8 11.5 3 15.4 3.2 15.5 2.5 11.4 1.3 23.5 .8 16.8 1.6 1.4-.7-16.8-1.7-23.8-.9-11.5-1.3-15.1-2.5-15.1-3.1-11.4-2.9-23.9-7.9-16.8-4.5z"/><path transform="translate(64.27 -35.43)" d="M714.2 756.9l16.8 4.5 23.5 7.9 11.4 3 15.5 3.2 15.5 2.5 11.4 1.2 23.5 .8 16.8 1.7 1.4-.8-16.8-1.7-23.8-.9-11.5-1.3-15.1-2.4-15.1-3.1-11.4-3-23.9-7.9-16.8-4.5z"/><path transform="translate(63.44 -34.97)" d="M714.2 756.8l16.8 4.6 23.2 7.8 11.8 3.1 15.4 3.2 15.5 2.5 11.7 1.3 23.2 .7 16.8 1.6 1.4-.7-16.8-1.7-23.5-.8-11.4-1.3-15.5-2.5-15.4-3.2-11.5-2.9-23.5-7.9-16.8-4.5z"/><path transform="translate(62.62 -34.52)" d="M714.2 756.9l16.8 4.5 23.2 7.9 11.8 3.1 15.4 3.2 15.5 2.5 11.7 1.2 23.2 .7 16.8 1.7 1.4-.8-16.8-1.7-23.5-.8-11.4-1.2-15.5-2.5-15.4-3.2-11.5-3-23.5-7.9-16.8-4.5z"/><path transform="translate(61.8 -34.06)" d="M714.2 756.9l17.1 4.7 22.6 7.7 12 3.1 15.5 3.3 15.5 2.4 12.1 1.3 22.5 .6 17.1 1.7 1.4-.8-16.8-1.7-23.2-.7-11.7-1.2-15.5-2.5-15.4-3.2-11.8-3.1-23.2-7.9-16.8-4.5z"/><path transform="translate(60.97 -33.61)" d="M714.2 756.9l17.1 4.7 22.6 7.7 12.1 3.2 15.4 3.2 15.5 2.5 12.1 1.3 22.5 .5 17.1 1.7 1.4-.8-17.1-1.7-22.5-.6-12.1-1.3-15.5-2.5-15.4-3.2-12.1-3.2-22.5-7.6-17.2-4.7z"/><path transform="translate(60.15 -33.15)" d="M714.2 756.9l17.1 4.7 22.2 7.7 12.1 3.2 15.8 3.3 15.8 2.5 12.1 1.3 22.2 .4 17.1 1.7 1.4-.8-17.1-1.7-22.5-.5-12.1-1.3-15.5-2.5-15.4-3.2-12.1-3.2-22.5-7.7-17.2-4.7z"/><path transform="translate(59.32 -32.7)" d="M714.2 756.9l17.1 4.7 22.2 7.7 12.1 3.3 15.8 3.3 15.8 2.5 12.1 1.2 22.2 .5 17.1 1.6 1.4-.8-17.1-1.6-22.2-.6-12.1-1.2-15.8-2.5-15.8-3.3-12.1-3.2-22.1-7.7-17.2-4.7z"/><path transform="translate(58.5 -32.25)" d="M714.2 756.9l17.5 4.8 21.5 7.6 12.4 3.3 15.8 3.3 15.8 2.6 12.4 1.2 21.5 .4 17.5 1.6 1.4-.8-17.1-1.6-22.2-.5-12.1-1.2-15.8-2.6-15.8-3.3-12.1-3.2-22.1-7.7-17.2-4.7z"/><path transform="translate(57.68 -31.79)" d="M714.2 756.9l17.5 4.8 21.5 7.7 12.4 3.3 15.8 3.3 15.8 2.5 12.4 1.3 21.5 .3 17.5 1.6 1.4-.8-17.5-1.6-21.5-.4-12.4-1.3-15.8-2.5-15.8-3.3-12.4-3.3-21.5-7.6-17.5-4.8z"/><path transform="translate(56.85 -31.34)" d="M714.2 756.9l17.5 4.8 21.1 7.6 12.8 3.5 15.8 3.3 15.8 2.5 12.8 1.3 21.1 .2 17.5 1.6 1.4-.8-17.4-1.6-21.5-.3-12.5-1.3-15.8-2.5-15.8-3.3-12.4-3.4-21.5-7.6-17.5-4.8z"/><path transform="translate(56.03 -30.88)" d="M714.2 756.9l17.5 4.8 21.1 7.7 12.8 3.4 15.8 3.3 15.8 2.6 12.8 1.2 21.1 .2 17.5 1.6 1.4-.8-17.4-1.6-21.6-.3-12.4-1.2-15.8-2.6-15.8-3.3-12.4-3.3-21.5-7.7-17.5-4.8z"/><path transform="translate(55.21 -30.43)" d="M714.2 756.9l17.8 5 20.5 7.4 13.1 3.6 15.8 3.3 15.8 2.5 13.1 1.3 20.5 .1 17.8 1.6 1.4-.8-17.5-1.6-21.1-.2-12.8-1.3-15.8-2.5-15.8-3.3-12.7-3.4-21.2-7.7-17.5-4.8z"/><path transform="translate(54.38 -29.98)" d="M714.2 756.9l17.8 5 20.5 7.5 13.1 3.6 15.8 3.3 15.8 2.5 13.1 1.3 20.5 0 17.8 1.6 1.4-.8-17.4-1.6-21.2-.1-12.8-1.3-15.8-2.5-15.8-3.3-12.7-3.5-21.2-7.6-17.5-4.9z"/><path transform="translate(53.56 -29.52)" d="M714.2 756.9l17.8 5 20.5 7.6 13.1 3.6 15.8 3.3 15.8 2.5 13.1 1.2 20.5 0 17.8 1.6 1.4-.8-17.8-1.6-20.5-.1-13.1-1.2-15.8-2.6-15.8-3.3-13.1-3.5-20.5-7.5-17.8-5z"/><path transform="translate(52.73 -29.07)" d="M714.2 756.9l17.8 5 20.2 7.5 13.1 3.6 16.1 3.4 16.1 2.6 13.1 1.2 20.2-.1 17.8 1.6 1.4-.8-17.8-1.6-20.5 0-13.1-1.3-15.8-2.5-15.8-3.3-13.1-3.5-20.5-7.6-17.8-5z"/><path transform="translate(51.91 -28.61)" d="M714.2 756.9l17.8 5 20.2 7.6 13.1 3.6 16.1 3.4 16.1 2.6 13.1 1.2 20.2-.2 17.8 1.6 1.4-.8-17.8-1.6-20.1 .1-13.1-1.2-16.2-2.6-16.1-3.4-13.1-3.6-20.2-7.5-17.8-5z"/><path transform="translate(51.09 -28.16)" d="M714.2 756.9l18.1 5.1 19.5 7.5 13.5 3.7 16.1 3.4 16.1 2.6 13.5 1.2 19.5-.3 18.1 1.6 1.4-.8-17.8-1.6-20.1 .2-13.2-1.3-16.1-2.5-16.1-3.4-13.1-3.6-20.2-7.6-17.8-5z"/><path transform="translate(50.26 -27.7)" d="M714.2 756.9l18.2 5.1 19.4 7.5 13.5 3.8 16.1 3.4 16.1 2.5 13.5 1.3 19.5-.4 18.1 1.6 1.4-.8-17.8-1.6-20.1 .2-13.1-1.2-16.2-2.6-16.1-3.3-13.1-3.7-20.2-7.6-17.8-5z"/><path transform="translate(49.44 -27.25)" d="M714.2 756.9l18.1 5.1 19.5 7.6 13.5 3.8 16.1 3.3 16.1 2.6 13.5 1.2 19.5-.4 18.1 1.6 1.4-.8-18.1-1.6-19.5 .3-13.5-1.2-16.1-2.6-16.1-3.4-13.4-3.7-19.5-7.5-18.2-5.1z"/><path transform="translate(48.61 -26.8)" d="M714.2 756.9l18.5 5.3 18.8 7.4 13.8 3.8 16.1 3.4 16.1 2.6 13.8 1.2 18.8-.4 18.5 1.5 1.4-.8-18.1-1.5-19.5 .3-13.4-1.2-16.2-2.6-16.1-3.4-13.4-3.7-19.5-7.5-18.2-5.2z"/><path transform="translate(47.79 -26.34)" d="M714.2 756.9l18.5 5.3 18.8 7.5 13.8 3.8 16.1 3.4 16.1 2.6 13.8 1.2 18.8-.5 18.5 1.5 1.4-.8-18.1-1.5-19.5 .4-13.4-1.3-16.2-2.5-16.1-3.4-13.4-3.7-19.5-7.6-18.2-5.2z"/><path transform="translate(46.97 -25.89)" d="M714.2 756.9l18.5 5.3 18.8 7.5 13.8 3.9 16.1 3.4 16.1 2.6 13.8 1.2 18.8-.6 18.5 1.5 1.4-.8-18.5-1.5-18.8 .5-13.8-1.3-16.1-2.5-16.1-3.4-13.8-3.9-18.8-7.4-18.5-5.3z"/><path transform="translate(46.14 -25.43)" d="M714.2 756.9l18.5 5.3 18.8 7.6 13.8 3.9 16.1 3.4 16.1 2.5 13.8 1.2 18.8-.6 18.5 1.5 1.4-.8-18.5-1.5-18.8 .5-13.7-1.2-16.2-2.5-16.1-3.4-13.8-3.9-18.8-7.5-18.5-5.3z"/><path transform="translate(45.32 -24.98)" d="M714.2 756.9l18.5 5.3 18.5 7.6 14.1 4 16.1 3.4 16.1 2.5 14.1 1.3 18.5-.8 18.5 1.5 1.4-.8-18.5-1.5-18.8 .6-13.8-1.2-16.1-2.6-16.1-3.4-13.8-3.8-18.8-7.6-18.5-5.3z"/><path transform="translate(44.49 -24.53)" d="M714.2 756.9l18.8 5.4 18.2 7.6 14.1 4 16.1 3.4 16.1 2.5 14.2 1.2 18.1-.8 18.8 1.5 1.4-.8-18.5-1.5-18.8 .7-13.7-1.2-16.2-2.6-16.1-3.4-13.8-3.8-18.8-7.7-18.5-5.3z"/><path transform="translate(43.67 -24.07)" d="M714.2 756.9l18.8 5.5 18.2 7.6 14.1 4 16.1 3.4 16.1 2.5 14.1 1.2 18.2-.9 18.8 1.5 1.4-.8-18.8-1.5-18.1 .8-14.1-1.2-16.2-2.6-16.1-3.4-14.1-4-18.2-7.4-18.8-5.5z"/><path transform="translate(42.85 -23.62)" d="M714.2 756.9l18.8 5.5 18.2 7.6 14.1 4.1 16.1 3.4 16.1 2.5 14.1 1.2 18.2-1 18.8 1.5 1.4-.8-18.8-1.5-18.1 .9-14.2-1.2-16.1-2.6-16.1-3.4-14.1-4-18.2-7.5-18.8-5.5z"/><path transform="translate(42.02 -23.16)" d="M714.2 756.9l19.2 5.6 17.4 7.5 14.5 4.1 16.1 3.4 16.1 2.6 14.5 1.2 17.5-1.1 19.1 1.5 1.4-.8-18.8-1.5-18.1 1-14.1-1.2-16.2-2.6-16.1-3.4-14.1-4-18.2-7.6-18.8-5.5z"/><path transform="translate(41.2 -22.71)" d="M714.2 756.9l19.2 5.6 17.4 7.6 14.5 4.1 16.1 3.4 16.1 2.6 14.5 1.2 17.5-1.2 19.1 1.5 1.4-.8-18.8-1.5-18.1 1-14.2-1.1-16.1-2.6-16.1-3.4-14.1-4-18.2-7.7-18.8-5.5z"/><path transform="translate(40.37 -22.25)" d="M714.2 756.9l19.2 5.6 17.4 7.7 14.5 4.1 16.1 3.4 16.1 2.6 14.5 1.2 17.5-1.3 19.1 1.5 1.4-.8-19.1-1.5-17.5 1.1-14.4-1.2-16.2-2.5-16.1-3.4-14.4-4.1-17.5-7.6-19.2-5.6z"/><path transform="translate(39.55 -21.8)" d="M714.2 756.9l19.2 5.6 17.4 7.8 14.5 4.1 8.4 1.5 7.7 2 7.7 .9 8.4 1.6 14.5 1.2 17.5-1.3 19.1 1.4 1.4-.8-19.1-1.4-17.5 1.1-14.4-1.2-16.2-2.5-16.1-3.4-14.5-4.1-17.4-7.7-19.2-5.6z"/><path transform="translate(38.73 -21.35)" d="M714.2 756.9l19.5 5.8 17.1 7.7 14.5 4.2 8.4 1.4 7.7 2 7.7 .8 8.4 1.7 14.5 1.2 17.1-1.4 19.5 1.4 1.4-.8-19.1-1.4-17.5 1.2-14.5-1.2-16.1-2.5-16.1-3.4-14.5-4.1-17.4-7.8-19.2-5.6z"/><path transform="translate(37.9 -20.89)" d="M714.2 756.9l19.5 5.8 16.8 7.7 14.8 4.3 8.4 1.4 7.7 2 7.7 .8 8.4 1.7 14.8 1.2 16.8-1.5 19.5 1.4 1.4-.8-19.1-1.4-17.5 1.3-14.4-1.2-8.4-1.6-7.8-.9-7.7-2-8.4-1.4-14.4-4.2-17.5-7.8-19.2-5.6z"/><path transform="translate(37.08 -20.44)" d="M714.2 756.9l19.5 5.8 16.8 7.8 7.4 1.8 7.4 2.5 8.4 1.3 7.7 2.1 7.7 .8 8.4 1.7 7.4 .3 7.4 .9 16.8-1.6 19.5 1.4 1.4-.8-19.5-1.4-16.8 1.4-14.7-1.1-8.4-1.7-7.8-.9-7.7-2-8.4-1.4-14.8-4.3-16.8-7.6-19.5-5.8z"/><path transform="translate(36.25 -19.98)" d="M714.2 756.9l19.8 5.9 16.5 7.8 7.4 1.8 7.4 2.5 8.4 1.3 7.7 2.1 7.7 .8 8.4 1.7 7.4 .3 7.4 .9 16.5-1.7 19.8 1.4 1.4-.8-19.5-1.4-16.8 1.5-14.7-1.1-8.4-1.8-7.8-.8-7.7-2-8.4-1.4-14.8-4.3-16.8-7.7-19.5-5.8z"/><path transform="translate(35.43 -19.53)" d="M714.2 756.9l19.8 5.9 16.5 7.9 7.4 1.8 7.4 2.5 8.4 1.3 7.7 2.1 7.7 .7 8.4 1.8 7.4 .2 7.4 1 16.5-1.8 8.4 .3 11.4 1.1 1.4-.8-19.5-1.4-16.8 1.6-7.4-.9-7.3-.2-8.4-1.8-7.8-.8-7.7-2-8.4-1.4-7.4-2.4-7.4-1.9-16.8-7.8-19.5-5.8z"/><path transform="translate(34.61 -19.08)" d="M714.2 756.9l19.8 6 16.5 7.9 7.4 1.7 7.4 2.6 8.4 1.3 7.7 2.1 7.7 .7 8.4 1.9 7.4 .1 7.4 1 16.5-1.9 8.4 .3 11.4 1.1 1.4-.8-11.4-1.1-8.4-.3-16.5 1.7-7.4-.9-7.4-.2-8.4-1.8-7.7-.8-7.7-2.1-8.4-1.3-7.4-2.5-7.4-1.8-16.5-7.8-19.8-5.9z"/><path transform="translate(33.78 -18.62)" d="M714.2 756.9l19.8 6 16.5 8 7.4 1.7 7.4 2.6 8 1.2 8.1 2.2 8.1 .7 8 1.9 7.4 .1 7.4 1 11.1-1.6 5.4-.4 8.4 .3 11.4 1.1 1.4-.8-11.4-1.1-8.4-.3-16.5 1.8-7.4-.9-7.3-.2-8.4-1.8-7.8-.7-7.7-2.2-8.4-1.3-7.4-2.5-7.4-1.8-16.4-7.8-19.9-6z"/><path transform="translate(32.96 -18.17)" d="M714.2 756.9l11.4 3.1 8.8 3 15.8 7.9 7.7 1.8 7.4 2.7 8 1 8.1 2.4 8.1 .6 8 1.9 7.4 .1 7.8 1.1 10.4-1.8 5.3-.3 8.8 .2 11.4 1.1 1.4-.7-11.4-1.2-8.4-.2-5.4 .3-11.1 1.6-7.4-1-7.3-.2-8.1-1.8-8.1-.7-8-2.3-8.1-1.1-7.4-2.6-7.4-1.7-16.5-8-19.8-5.9z"/><path transform="translate(32.13 -17.71)" d="M714.2 756.9l11.4 3.1 8.8 3 5.7 2.6 10.1 5.4 7.7 1.7 7.4 2.8 8 1 8.1 2.4 8.1 .6 8 1.9 7.4 0 7.8 1.2 10-1.8 5.8-.4 8.7 .2 11.4 1.1 1.4-.8-11.4-1.1-8.7-.2-5.4 .3-10.4 1.7-7.8-1.1-7.3-.1-8.1-1.8-8.1-.7-8-2.3-8.1-1.1-7.4-2.7-7.7-1.7-15.8-7.9-8.7-2.9-11.5-3.2z"/><path transform="translate(31.31 -17.26)" d="M714.2 756.9l11.4 3.1 8.8 3 5.7 2.6 10.1 5.6 7.7 1.6 7.4 2.8 8 1 8.1 2.4 8.1 .6 8 2 7.4-.1 7.8 1.2 10-1.9 5.7-.4 8.8 .2 11.4 1.1 1.4-.7-11.4-1.2-8.7-.2-5.4 .4-10.4 1.7-7.8-1.1-7.3 0-8.1-1.9-8.1-.7-8-2.3-8.1-1.1-7.4-2.7-7.7-1.7-10.4-5.6-5.4-2.4-8.8-2.9-11.4-3.1z"/><path transform="translate(30.49 -16.8)" d="M714.2 756.9l11.8 3.2 8.7 3.1 5.4 2.4 10.1 5.7 7.3 1.5 7.8 2.9 8 1 8.1 2.5 8.1 .4 8 2.1 7.8-.1 7.4 1.2 10-1.9 5.4-.5 8.7 .2 11.8 1.1 1.4-.8-11.4-1.1-8.7-.2-5.8 .4-10 1.8-7.8-1.1-7.4 0-8-2-8.1-.6-8-2.4-8.1-1-7.4-2.7-7.7-1.7-10.1-5.5-5.7-2.6-8.8-2.9-11.4-3.2z"/><path transform="translate(29.66 -16.35)" d="M714.2 756.9l11.8 3.3 8.7 3 5.7 2.6 9.8 5.6 7.4 1.5 7.7 3 8 .8 8.1 2.6 8.1 .4 8 2.1 7.8-.1 7.4 1.2 9.7-2 5.7-.5 8.7 .2 11.8 1.1 1.4-.7-11.7-1.2-8.8-.2-5.3 .5-10.1 1.8-7.8-1.2-7.3 .1-8.1-2-8.1-.5-8-2.5-8.1-.9-7.4-2.8-7.7-1.7-10.1-5.6-5.4-2.4-8.7-3-11.8-3.2z"/><path transform="translate(28.84 -15.9)" d="M714.2 756.9l11.8 3.3 8.7 3 5.7 2.7 9.8 5.7 7.3 1.3 7.8 3.1 8 .8 8.1 2.6 8.1 .4 8 2.2 7.8-.2 7.4 1.3 9.7-2.1 5.7-.6 8.7 .2 11.8 1.1 1.4-.7-11.7-1.2-8.8-.2-5.3 .5-10.1 2-7.4-1.3-7.7 .2-8.1-2.1-8.1-.5-8-2.5-8.1-.9-7.7-3-7.4-1.5-10.1-5.7-5.4-2.4-8.7-3-11.8-3.2z"/><path transform="translate(28.01 -15.44)" d="M714.2 756.9l12.1 3.4 8.7 3 5.4 2.6 9.8 5.8 7.4 1.3 8 3.2 8.4 .8 7.4 2.6 7.4 .2 8.4 2.3 8.1-.3 7.4 1.4 2.3-.2 7.4-2 5.4-.6 8.7 .2 12.1 1.1 1.4-.7-11.7-1.2-8.8-.2-5.7 .6-9.7 2-7.4-1.3-7.7 .2-8.1-2.1-8.1-.4-8-2.6-8.1-.9-7.7-3-7.4-1.4-9.8-5.7-5.7-2.6-8.7-3-11.8-3.2z"/><path transform="translate(27.19 -14.99)" d="M714.2 756.9l12.1 3.4 8.7 3 5.8 2.8 9.4 5.7 7.4 1.3 8 3.3 8.4 .7 7.4 2.6 7.4 .1 8.4 2.4 8.1-.3 7.4 1.5 2.3-.3 7.1-2 5.7-.6 8.7 .1 12.1 1.1 1.4-.7-12.1-1.2-8.7-.1-5.4 .5-9.7 2.1-7.4-1.3-7.7 .2-8.1-2.2-8.1-.3-8-2.6-8.1-.8-7.7-3.1-7.4-1.4-9.8-5.7-5.3-2.6-8.8-3-12.1-3.3z"/><path transform="translate(26.37 -14.53)" d="M714.2 756.9l12.4 3.5 8.8 3.1 5.3 2.6 9.1 5.8 7.7 1.3 8.1 3.4 8.4 .6 7.4 2.7 7.4 0 8.4 2.5 8.1-.4 7.7 1.5 9.1-2.4 5.3-.6 8.8 .1 12.4 1.1 1.4-.7-12.1-1.2-8.7-.1-5.4 .5-7.4 2-2.3 .3-7.4-1.4-8.1 .2-8.4-2.3-7.4-.2-7.4-2.5-8.4-.8-8-3.2-7.4-1.4-9.8-5.8-5.3-2.5-8.8-3.1-12.1-3.3z"/><path transform="translate(25.54 -14.08)" d="M714.2 756.9l12.4 3.5 8.8 3.1 5.7 2.9 8.7 5.6 7.8 1.2 8 3.5 8.4 .6 7.4 2.8 7.4-.1 8.4 2.5 8.1-.5 7.7 1.7 8.7-2.5 5.7-.7 8.8 .1 12.4 1.1 1.4-.7-12.1-1.2-8.7-.1-5.7 .6-7.1 2.1-2.3 .2-7.4-1.5-8.1 .4-8.4-2.4-7.4-.1-7.4-2.6-8.4-.7-8-3.4-7.4-1.2-9.4-5.8-5.7-2.7-8.8-3.1-12.1-3.3z"/><path transform="translate(24.72 -13.63)" d="M714.2 756.9l12.4 3.5 8.8 3.1 5.7 2.9 8.7 5.8 7.7 1.1 8.1 3.6 8.4 .4 7.4 2.9 7.4-.1 8.4 2.6 8.1-.6 7.7 1.7 8.7-2.5 5.7-.8 8.8 .1 12.4 1.1 1.4-.7-12.4-1.2-8.7-.1-5.8 .7-8.7 2.4-7.7-1.6-8.1 .5-8.4-2.5-7.4 0-7.4-2.8-8.4-.6-8-3.4-7.8-1.3-8.7-5.5-5.7-2.9-8.7-3.1-12.5-3.4z"/><path transform="translate(23.89 -13.17)" d="M714.2 756.9l12.4 3.5 9.1 3.3 5.7 2.9 8.4 5.7 7.8 1.1 8 3.6 8.4 .4 7.4 3 7.4-.3 8.4 2.8 8.1-.7 7.7 1.8 8.4-2.6 5.7-.9 9.1 .1 12.4 1.1 1.4-.7-12.4-1.2-8.7-.1-5.8 .8-8.7 2.4-7.7-1.6-8.1 .5-8.4-2.6-7.4 .1-7.4-2.8-8.4-.5-8-3.5-7.8-1.2-8.7-5.7-5.7-2.9-8.7-3.1-12.5-3.4z"/><path transform="translate(23.07 -12.72)" d="M714.2 757l12.8 3.5 8.7 3.2 5.7 3 8.4 5.8 7.8 .9 8 3.8 8.4 .3 7.4 3.1 7.4-.4 8.4 2.9 8.1-.9 7.7 2 8.4-2.8 5.7-.8 8.7 0 12.8 1.2 1.4-.8-12.4-1.2-8.7-.1-5.8 .8-8.7 2.6-7.7-1.8-8.1 .7-8.4-2.7-7.4 .2-7.4-2.9-8.4-.5-8-3.6-7.8-1.1-8.7-5.8-5.7-2.9-8.7-3.1-12.5-3.4z"/><path transform="translate(22.25 -12.26)" d="M714.2 756.9l12.8 3.6 9 3.3 5.4 2.9 8.4 6 7.7 .8 8.1 3.9 5.7-.2 2.7 .3 7.4 3.2 7.4-.4 8.4 2.9 8.1-.9 7.7 2 8.4-2.9 5.4-.8 9 0 12.8 1.1 1.4-.7-12.7-1.2-8.8 0-5.7 .8-8.4 2.7-7.7-1.9-8.1 .7-8.4-2.7-7.4 .3-7.4-3.1-8.4-.3-8-3.7-7.8-1-8.4-5.7-5.7-3-8.7-3.2-12.8-3.5z"/><path transform="translate(21.42 -11.81)" d="M714.2 757l12.8 3.5 9 3.4 5.8 3 8 6 7.8 .7 8 4 5.7-.3 2.7 .3 7.4 3.3 7.4-.6 2.7 .7 5.7 2.4 8.1-1 7.7 2.1 8.1-2.9 5.7-1 9 0 12.8 1.2 1.4-.8-12.7-1.2-8.8 0-5.7 .8-8.4 2.8-7.7-1.9-8.1 .8-8.4-2.9-7.4 .4-7.4-3.1-8.4-.2-8-3.8-7.8-.9-8.4-5.9-5.7-3-8.7-3.2-12.8-3.5z"/><path transform="translate(20.6 -11.35)" d="M714.2 756.9l12.8 3.6 9 3.4 5.8 3.1 8 6 7.7 .6 8.1 4.2 5.7-.5 2.7 .4 7.4 3.4 7.4-.7 2.7 .7 5.7 2.5 8.1-1.2 7.7 2.3 1.7-.3 6.4-2.8 5.7-1 9 0 12.8 1.1 1.4-.7-12.7-1.2-9.1 0-5.4 .9-8.4 2.9-7.7-2.1-8.1 1-5.7-2.4-2.7-.6-7.4 .5-7.4-3.2-2.7-.4-5.7 .3-8-4-7.8-.8-8.4-6-5.3-2.8-9.1-3.4-12.8-3.5z"/><path transform="translate(19.77 -10.9)" d="M714.2 757l13.1 3.6 9.1 3.4 5.4 3 8 6.2 7.8 .5 8 4.3 5.7-.6 2.7 .4 7.4 3.5 7.4-.8 2.7 .6 5.7 2.7 8.1-1.3 7.7 2.4 1.7-.3 6.4-3 5.3-1 9.1 0 13.1 1.2 1.4-.8-12.7-1.2-9.1 0-5.7 1-8.1 3-7.7-2.2-8.1 1.1-5.7-2.5-2.7-.6-7.4 .6-7.4-3.3-2.7-.4-5.7 .4-8-4.1-7.8-.7-8-5.9-5.7-3.1-9.1-3.4-12.8-3.5z"/><path transform="translate(18.95 -10.45)" d="M714.2 757l13.1 3.6 9.1 3.4 5.7 3.3 7.7 6.2 7.8 .3 8 4.4 5.7-.7 2.7 .3 7.4 3.8 7.4-1 2.7 .6 5.7 2.8 5.7-1.3 2.4-.1 7.7 2.5 1.7-.4 6-2.9 5.7-1.1 9.1-.1 13.1 1.2 1.4-.8-12.7-1.2-9.1 0-5.7 1-6.4 2.9-1.7 .3-7.7-2.3-8.1 1.2-5.7-2.6-2.7-.6-7.4 .7-7.4-3.5-2.7-.3-5.7 .5-8-4.2-7.8-.6-8-6.1-5.7-3.1-9.1-3.4-12.8-3.5z"/><path transform="translate(18.13 -9.99)" d="M714.2 757l13.4 3.7 9.1 3.5 5.4 3.1 7.7 6.4 5.4-.2 2.3 .3 2.4 1 5.7 3.6 5.4-.8 3 .3 7.4 3.9 7.4-1.2 3 .8 5.4 2.9 5.7-1.5 2.4-.2 7.7 2.7 1.7-.4 6-3.1 5.4-1.1 9.1-.1 13.4 1.2 1.4-.8-13.1-1.2-9.1 .1-5.7 1.1-6 2.8-1.7 .4-7.7-2.5-8.1 1.4-5.7-2.7-2.7-.7-7.4 .9-7.4-3.6-2.7-.3-5.7 .6-8-4.4-7.8-.4-7.7-6-5.7-3.3-9.1-3.4-13.1-3.6z"/><path transform="translate(17.3 -9.54)" d="M714.2 757l13.4 3.7 9.1 3.5 5.7 3.4 7.4 6.3 5.4-.4 2.4 .4 2.6 1.2 5.4 3.6 5.4-1 2.7 .2 2.3 .9 5.4 3.2 5.4-1.3 2.3 0 2.7 .8 5.4 3 5.4-1.6 2.7-.2 2.3 .5 5.4 2.4 1.7-.5 5.7-3.1 5.7-1.3 9.1-.1 13.4 1.2 1.4-.8-13.1-1.2-9 .1-5.8 1.1-6 3-1.7 .4-7.7-2.6-2.4 .1-5.7 1.4-5.7-2.8-2.7-.7-7.4 1-7.4-3.7-2.7-.4-5.7 .8-8-4.5-7.8-.3-7.7-6.2-5.7-3.2-9.1-3.5-13.1-3.6z"/><path transform="translate(16.48 -9.08)" d="M714.2 757l13.8 3.8 9.1 3.6 5.3 3.2 7.4 6.5 5.1-.5 2.6 .3 2.7 1.3 5.4 3.7 5.4-1.2 2.7 .2 2.3 .9 5.4 3.4 5.4-1.4 2.3 0 2.7 .8 5.4 3.1 5.4-1.7 2.7-.3 2.6 .7 5.1 2.4 1.3-.3 6.1-3.5 5.4-1.2 9-.2 13.8 1.2 1.4-.8-13.4-1.2-9.1 .1-5.4 1.1-6 3.2-1.7 .4-5.4-2.2-2.3-.5-2.4 .1-5.7 1.5-5.4-2.8-3-.9-7.4 1.2-7.4-3.9-3-.3-5.4 .9-5.7-3.6-2.3-1-2.4-.4-5.4 .2-7.7-6.4-5.4-3.1-9-3.5-13.5-3.7z"/><path transform="translate(15.66 -8.63)" d="M714.2 757l12.1 3.3 8.7 3.2 7.1 3.9 7.4 6.8 1.3 .3 4.4-.8 2.3 .3 2.7 1.2 5.4 4 5-1.3 2.7 0 3.1 1.2 4.7 3.3 1.3 .1 4.4-1.6 2.7 0 2.7 .9 5 3.2 5-1.8 2.4-.4 3 .6 5 2.6 1.4-.2 2-1.2 1.4-1-2 1.1-1.3 .1-5.1-2.3-3-.6-7.4 1.9-5.4-3-2.3-.8-2.7 0-4 1.2-1.7 0-5.1-3.2-2.6-1-2.4-.1-5.4 1-5.3-3.6-2.7-1.2-2.4-.3-4 .5-1.7-.3-7.7-6.7-7.1-3.8-8.4-3-12.1-3.3zM817.4 783.6l1.4-.9-1.4 .9-1.4 1zM817.4 783.6l4.7-2.1 6-.9 8.4 0 12.1 1.2 1.4-.8-12.1-1.1-8.4-.1-6 .9-4.7 2z"/><path transform="translate(14.83 -8.18)" d="M714.2 757l12.1 3.3 8.7 3.2 7.4 4.2 7.1 6.8 1.3 .2 4.1-.9 2.7 .3 2.6 1.2 5.4 4.1 4.7-1.4 2.4-.1 3.3 1.1 5.4 3.8 5-1.8 2.4-.1 3 .8 5.4 3.6 1.3-.3 3.7-1.8 2.4-.4 3.4 .8 4.7 2.7 1.3-.2 1.3-.9 1.5-1-2.7 .8-5.1-2.5-3-.5-7.4 2-5.4-3.2-3-.8-2.3 .1-5.1 1.4-5.7-3.6-3-.9-7.1 1.2-5.3-3.8-2.7-1.2-2.4-.3-4.4 .7-1.3-.3-7.4-6.7-7.4-4.1-8.4-3-12.1-3.3zM816.8 784.2l2.3-1.6-1.4 .9-2.4 1.7zM817.7 783.5l4.4-2 6-.9 8.4 .1 12.1 1.1 1.4-.8-11.7-1.1-8.4-.1-6.1 .8-4.7 2z"/><path transform="translate(14.01 -7.72)" d="M714.2 757l12.4 3.4 8.8 3.2 7 4.1 7.1 7.1 1.3 .2 4.1-1.2 2.6 .3 2.7 1.3 5.4 4.3 4.7-1.6 2.7-.1 3 1.1 5.4 3.9 5-1.9 2.4-.2 3.4 1.1 5 3.5 1.3-.2 3.7-2 2.4-.4 3.3 .7 4.8 2.9 1 0 1.3-.8 1.4-1.2-2.3 .8-4.7-2.6-3.1-.7-2.3 .3-5.4 2-5.4-3.4-3-.9-2.3 .2-5.1 1.6-5.4-3.7-3.3-1.1-2.4 .2-4.7 1.2-5.3-3.9-2.7-1.3-2.4-.3-4.4 .9-1.3-.3-7.4-6.9-7-3.9-8.8-3.2-12.1-3.3zM816.4 784.5l3-2.1-1.4 .9-3 2.4zM818 783.3l4.4-1.9 6-.8 8.4 .1 11.8 1.1 1.4-.8-11.7-1.1-8.4-.1-6.1 .8-4.4 1.8z"/><path transform="translate(13.18 -7.27)" d="M714.2 757l12.4 3.4 8.8 3.2 7.4 4.4 6.7 7.1 1.3 .1 4.1-1.3 2.7 .3 3 1.5 5 4.3 4.7-1.8 2.7-.2 3.4 1.3 5 4.1 4.7-2.1 2.7-.3 3.4 1.1 5 3.7 1-.1 4-2.3 2.7-.5 3.1 .8 4.7 3.1 2-.7 1.4-1.1-2 .5-4.7-2.7-3.1-.7-2.6 .4-3.7 1.8-1.4 .2-5.4-3.5-3-.9-2.3 .2-5.1 1.8-5.3-3.9-3.1-1.1-2.3 .1-5.1 1.5-5.3-4.1-2.7-1.3-2.7-.3-4 1-1.4-.2-7-6.9-7.4-4.2-8.8-3.2-12.1-3.3zM816.1 785l3.7-2.7-1.4 .9-3.7 2.9zM818.4 783.2l4.3-1.8 6.1-.8 8.4 .1 11.4 1.1 1.4-.8-11.4-1.1-8.4-.1-6 .7-4.4 1.8z"/><path transform="translate(12.36 -6.81)" d="M714.2 757l12.8 3.5 8.7 3.3 7.1 4.3 6.7 7.3 1.3 .1 4.1-1.5 2.7 .2 3 1.6 5 4.5 4.7-2 2.7-.2 3.4 1.3 5 4.3 4.7-2.3 2.7-.4 3.4 1.1 5 4 1-.1 4-2.5 2.7-.5 3.4 .9 4.4 3.2 1 0 1-.7 1.4-1.2-2 .6-4.7-2.9-3.1-.8-2.6 .4-3.7 2.1-1.4 .2-5-3.6-3.4-1.1-2.7 .4-4.7 1.8-5.4-4-3-1.1-2.7 .1-4.7 1.7-5-4.1-3-1.6-2.7-.2-4.1 1.1-1.3-.1-7.1-7.1-7-4.1-8.7-3.3-12.5-3.4zM816.1 785.2l4-3-1.4 .8-4 3.4zM818.7 783l4.4-1.7 5.7-.8 8.4 .2 11.4 1.1 1.4-.8-11.4-1.1-8.1-.2-6 .8-4.4 1.7z"/><path transform="translate(11.54 -6.36)" d="M714.2 757l14.5 4.1 9.4 3.9 5.3 3.7 6.4 7.2 4.4-1.7 2.7-.1 3.7 1.7 5 4.9 4.4-2.3 3-.3 3.4 1.4 5 4.5 4.7-2.5 2.7-.5 3.7 1.4 4.4 4 1 0 1.3-.9 1.4-1.1-1.3 .7-1-.1-4.7-3.7-3.4-1.1-2.7 .3-4.7 2.2-5-4.1-3.4-1.4-2.7 .2-4.7 1.9-5.3-4.6-3.4-1.5-2.4 0-4.7 1.3-6.7-7-5.4-3.5-9.4-3.8-14.1-4zM800.6 784.4l1.4-.9-1.4 1-1.4 1zM800.6 784.5l2.6-1.3 2.7-.1 2.7 1.1 4.1 3.2 1.6-.5 1.4-1.2-1 .5-1-.2-3.7-2.7-2.7-1-2.6 0-2.7 1.2zM815.7 785.7l4.4-3.5-1.4 .9-4.4 3.8zM818.7 783.1l4.4-1.8 5.7-.7 8.4 .1 11.4 1.1 1.4-.8-11.4-1.1-8.1-.1-6 .7-4.4 1.7z"/><path transform="translate(10.71 -5.9)" d="M714.2 757l14.5 4.1 9.4 3.9 5.7 4 6 7.2 4.4-2 3 0 3.7 2 4.4 4.7 1 0 4-2.5 2.7-.3 3.7 1.7 4.4 4.5 1 0 1-.7 1.4-1.2-2 .5-4.7-4.3-3.4-1.3-2.7 .2-3.7 2-1.3 0-4.7-4.5-3.4-1.7-2.7 0-4.7 1.5-6.3-6.9-5.8-3.9-9.4-3.8-14.1-4zM784.5 782.4l1.3-.9-1.4 1-1.3 1.1zM784.4 782.5l2.7-1.3 2.7 0 3 1.5 4.1 4 1 .1 1-.8 1.4-1.2-1 .6-1 0-4.1-3.6-3-1.4-2.7-.1-2.7 1.2zM800.3 784.8l2-1.4-1.4 .9-2 1.7zM800.9 784.3l2.3-1.1 2.7 0 3.1 1.3 3.7 3.3 .6 .1 1-.7 1.5-1.3-1.7 .5-4.1-3-2.6-1.1-2.7 .1-2.4 1zM815.8 785.9l4.7-3.8-1.5 .8-4.7 4.3zM819 782.9l4.4-1.7 5.7-.7 8.1 .2 11.4 1.1 1.4-.8-11.4-1.1-8.1-.1-5.7 .6-4.3 1.7z"/><path transform="translate(9.89 -5.45)" d="M714.2 757l14.8 4.2 9.4 4 5.7 4.2 5.4 7.1 1 0 3.7-2.2 3-.1 3.7 2 4.4 5.1 .6 .1 1.1-.6 1.4-1.3-1.7 .4-4.7-4.8-3.4-1.7-2.7-.1-4 1.9-1-.2-5.7-6.8-5.7-4-9.4-3.9-14.5-4.1zM768.4 779.5l1.7-1.1-1.5 .9-1.6 1.5zM768.6 779.3l2.7-1.1 3 .3 3.1 1.9 3.7 4.2 .6 .2 1-.7 1.5-1.2-1.7 .3-4-4-3.1-1.7-2.7-.2-2.6 1.1zM784.2 782.9l2-1.5-1.4 .9-2.1 1.8zM784.8 782.3l2.7-1.1 2.6 .2 3.1 1.7 3.7 4 .6 .2 1-.7 1.5-1.3-1.7 .4-4.1-3.8-2.6-1.4-2.7-.2-2.7 1.1zM800 785.3l2.6-2-1.4 .9-2.7 2.4zM801.2 784.2l2.7-1 2.7 .2 2.7 1.4 3.4 3.4 1.3-.4 1.4-1.3-1.3 .3-3.7-3.1-2.7-1.3-2.7 0-2.4 .9zM815.4 786.5l5.1-4.4-1.5 .9-2.3 1.8-2.7 3zM819 783l4.4-1.8 5.7-.7 8.1 .2 11.4 1.1 1.4-.8-11.4-1.1-8.1-.1-5.7 .6-4.3 1.7z"/><path transform="translate(9.06 -5)" d="M714.2 757l14.5 4.1 9 3.7 3.7 2.3 2.7 2.4 5.4 7.4 .7 .1 1-.7 1.4-1.2-1 .5-1-.5-5.4-6.8-6.4-4.5-9.1-3.6-14.1-4zM752.6 775.1l1.3-.9-1.4 1-1.3 1.1zM752.5 775.2l3-1.1 3.1 .6 3 2.3 3.7 4.7 1.3-.3 1.4-1.4-1 .4-.6-.4-3.7-4.3-3.1-2-3-.4-2.7 .9zM768 780l2.4-1.7-1.4 .9-2.4 2.2zM769 779.2l2.7-1 3 .5 3 2.1 3.4 4.3 1.3-.4 1.4-1.3-1 .3-.6-.3-3.4-3.8-3-1.9-2.7-.4-2.7 1zM783.8 783.4l2.7-2.1-1.4 .9-2.7 2.5zM785.1 782.2l2.7-1 2.7 .3 3 2 3.4 4 1.3-.3 1.4-1.3-1.3 .2-3.7-3.9-2.7-1.5-2.7-.4-2.7 1zM799.6 785.9l3.1-2.5-1.5 .9-3 2.9zM801.2 784.3l2.7-1.1 2.7 .2 2.7 1.5 3.4 3.7 1.3-.4 1.4-1.4-1.3 .3-3.7-3.3-2.7-1.3-2.7-.1-2.3 1zM815.4 786.8l3-3.2 2.4-1.6-1.4 .8-2.7 2.1-2.7 3.3zM819.4 782.8l4.3-1.6 5.8-.7 8 .2 11.1 1.1 1.4-.8-11.1-1.1-8-.1-5.7 .6-4.4 1.6z"/><path transform="translate(8.24 -4.54)" d="M714.2 757l14.5 4.1 9.4 3.9 3.7 2.4 2.6 2.4 5.1 7.5 1.3-.4 1.4-1.3-1 .3-.6-.4-5.1-6.9-2.7-2.3-3.7-2.3-9-3.7-14.5-4.1zM752.2 775.6l2.1-1.5-1.5 1-2 1.8zM752.8 775.1l2.7-.9 3.1 .6 3 2.2 3.7 5.2 1.3-.5 1.4-1.4-1 .5-.6-.4-3.4-4.3-3-2.2-3-.6-2.7 .8zM768 780.3l2.7-2.1-1.4 .9-2.7 2.6zM769.3 779.1l2.7-.9 2.7 .5 3 2.2 3.4 4.6 .6 .1 .7-.5 1.4-1.4-1.3 .3-3.7-4.3-2.7-1.8-2.7-.5-2.7 .8zM783.8 783.7l3.1-2.5-1.5 .9-3 3zM785.4 782.1l2.7-.9 2.7 .5 2.7 1.8 3.4 4.4 .6 .2 .7-.5 1.4-1.4-1.3 .2-3.4-3.8-2.7-1.8-2.7-.4-2.6 .8zM799.6 786.2l3.4-3-1.4 .9-3.4 3.5zM801.6 784.1l2.7-.9 2.6 .4 2.7 1.7 3.1 3.7 1-.1 1.4-1.5-1 .1-3.4-3.4-2.3-1.4-2.7-.3-2.7 .8zM815.1 787.4l3.3-3.7 2.4-1.7-1.4 .8-2.7 2.2-3 3.9zM819.4 782.8l4.3-1.6 5.8-.7 8 .2 11.1 1.1 1.4-.8-11.1-1.1-8-.1-5.7 .6-4.4 1.6z"/><path transform="translate(7.42 -4.09)" d="M714.2 757l15.1 4.3 9.4 4.1 5.4 4.1 2.4 3 2.6 4.9 .7 .6 .7-.4 1.4-1.4-.7 .2-.6-.5-3.1-4.8-2.3-2.8-5.4-3.9-9.4-4-14.8-4.2zM751.9 776.2l2.4-1.9-1.5 .9-2.3 2.4zM752.8 775.2l3.1-1 3 .8 3 2.5 3.4 5.1 1-.2 1.4-1.4-.7 .2-.6-.4-3.1-4.2-3-2.5-3-.8-3 1zM767.7 781l3-2.8-1.4 1-3 3.2zM769.3 779.2l2.7-1 3 .7 3 2.5 3.1 4.6 1-.2 1.4-1.5-1 .1-3.4-4.3-2.7-2-3-.7-2.7 .8zM783.5 784.3l3.4-3.1-1.5 .9-3.3 3.7zM785.4 782.1l2.7-.9 3 .7 2.7 2.1 3.1 4.4 1-.1 1.4-1.5-1 .1-3-3.8-2.7-2.1-3.1-.6-2.6 .8zM799.3 786.8l3.7-3.5-1.4 .9-3.7 4.1zM801.6 784.2l2.7-1 3 .6 2.7 1.9 2.7 3.7 1-.1 1.4-1.5-1 .1-3.1-3.4-2.6-1.7-2.7-.4-2.7 .9zM815.1 787.8l3-3.7 2.7-2.1-1.4 .9-3.1 2.5-2.6 3.9zM819.4 782.9l4.3-1.7 5.8-.7 8 .2 11.1 1.1 1.4-.8-11.1-1.1-8-.1-5.7 .6-4.4 1.6z"/><path transform="translate(6.59 -3.63)" d="M714.2 757l15.1 4.3 9.4 4.1 5.4 4.1 2.7 3.7 2.4 4.7 .6 .5 .7-.4 1.4-1.4-.7 .2-.6-.5-2.7-4.6-2.7-3.3-5.4-4-9.4-4-14.8-4.2zM751.9 776.6l2.7-2.5-1.4 .9-2.7 3zM753.2 775l3-.8 3 1 3.1 2.8 3 5.1 1-.3 1.4-1.5-1 .2-3.4-4.9-3-2.4-3-.8-2.7 .7zM767.7 781.3l3.4-3.2-1.5 .9-1.6 1.5-1.7 2.3zM769.6 779l2.7-.7 3.1 .8 2.6 2.4 3.1 4.9 1-.2 1.4-1.5-1 .1-3-4.3-2.7-2.2-3-.9-2.7 .7zM783.5 784.7l3.4-3.4-1.5 .9-3.3 4zM785.4 782.2l2.7-.9 3.1 .6 3 2.6 2.7 4.4 1-.1 1.4-1.5-1 0-3-4.2-2.7-2-3.1-.7-2.6 .9zM799.3 787.3l2.3-2.9 1.7-1.2-1.4 .8-2 1.8-2 3zM801.9 784l2.7-.8 3 .7 2.4 1.9 2.7 4.1 1-.1 1.4-1.6-1 .1-3.1-3.8-2.3-1.6-2.7-.5-2.7 .8zM815.1 788.2l3-4 3-2.3-1.4 .8-3.3 2.8-2.7 4.3zM819.7 782.7l4.4-1.6 5.7-.6 8.1 .2 10.7 1.1 1.4-.8-10.7-1-8.1-.3-5.7 .6-4.4 1.6z"/><path transform="translate(5.77 -3.18)" d="M714.2 757l15.8 4.6 9.4 4.2 5.4 4.5 2 3 2.3 5 1.1 .5 1.4-1.6-1-.4-2.4-4.5-2.3-3.2-5.4-4.3-9.4-4.1-15.5-4.5zM751.6 777.2l3-3-1.4 .9-3 3.7zM753.2 775.1l3-.8 3.4 1.1 2.7 2.7 3 5.5 .6 0 1.5-1.6-1-.4-3.4-5.3-2.4-1.9-3-1-3 .8zM767.4 782l3.7-3.8-1.5 .9-1.6 1.5-2.1 3zM769.6 779.1l3.1-.8 3 1.1 2.7 2.6 2.7 4.9 1-.2 1.4-1.5-1 .1-3-4.7-2.7-2.3-3.1-.8-2.6 .7zM783.5 785.2l2-2.7 1.7-1.3-1.4 .8-1.7 1.5-2 3.2zM785.8 782l2.7-.7 3 .8 2.7 2.5 2.7 4.7 .3 .3 .7-.4 1.4-1.5-1 0-2.7-4.1-2.7-2.3-3-.9-2.7 .8zM799.3 787.7l2-2.8 2-1.7-1.4 .9-2 1.8-2 3.3zM801.9 784.1l2.7-.8 3 .7 2.7 2.3 2.4 4 .3 .3 .7-.4 1.4-1.5-1 .1-2.7-3.8-2.7-2-2.7-.6-2.7 .8zM815.1 788.7l3-4.4 3-2.4-1.4 .8-3.4 2.9-2.6 4.6zM819.7 782.7l4.4-1.6 5.7-.6 8.1 .2 10.7 1.1 1.4-.8-10.7-1-8.1-.2-5.7 .5-4.4 1.6z"/><path transform="translate(4.94 -2.73)" d="M714.2 757l15.8 4.6 9.4 4.2 3 2.2 2.7 2.8 2 3.2 2.1 4.8 .6 .7 .4-.2 1.4-1.6-1-.5-2.4-4.8-2-2.9-2.7-2.6-3-2.1-9.4-4.1-15.5-4.5zM751.6 777.7l3.3-3.6-1.4 .9-1.7 1.5-1.6 2.8zM753.5 775l3-.7 3.4 1.4 2.7 2.9 2.7 5.5 .7 0 1.4-1.6-.7 0-3-5.3-2.7-2.6-3-1.1-3.1 .6zM767.4 782.5l2-2.8 1.7-1.5-1.4 .9-1.7 1.6-2 3.4zM769.7 779.1l3-.8 3.3 1.3 2.7 3 2.4 4.8 .6 .1 1.5-1.6-1-.6-2.7-4.6-2.4-2.1-3-1.1-3 .7zM783.2 785.9l2.3-3.3 1.7-1.4-1.4 .9-2 1.9-2.1 3.5zM785.8 782.1l3-.8 3 1.1 2.4 2.2 2.7 5.2 .6 .3 1.5-1.7-.7-.2-3-4.9-2.1-1.8-3-1-3 .7zM799 788.4l2.3-3.4 2-1.7-1.4 .8-2 1.9-2.4 4.1zM801.9 784.1l2.7-.8 3 .7 2.7 2.4 2.4 4.4 .3 .3 .7-.4 1.4-1.6-1 .1-2.7-4.1-2.4-1.9-3-.7-2.7 .8zM815.1 789.1l2.7-4.3 3.3-2.9-1.4 .8-3.3 3-2.7 5zM819.7 782.7l4.4-1.6 5.7-.6 8.1 .3 10.7 1 1.4-.8-10.7-1-8.1-.2-5.7 .6-4.4 1.5z"/><path transform="translate(4.12 -2.27)" d="M714.2 757l16.1 4.7 9.4 4.3 3.1 2.3 2.3 2.5 2 3.3 2.1 5.1 .6 .8 .4-.3 1.4-1.6-1-.4-2-4.6-2.4-3.5-5.4-4.6-9.4-4.2-15.8-4.6zM751.6 778.1l2-2.9 1.3-1.1-1.4 .9-1.7 1.6-1.6 3.1zM753.5 775l3-.7 3.4 1.4 2.7 3 2.7 5.9 .7 0 1.4-1.6-.7 0-2.7-5.2-2.7-2.9-3.3-1.4-3.1 .6zM767.4 783l2-3.2 1.7-1.5-1.5 .8-1.6 1.7-2 3.8zM769.6 779.1l3.1-.8 3.3 1.3 2.4 2.5 2.7 5.8 .6 .1 1.5-1.6-.7-.1-3-5.5-2.4-2.2-3-1.1-3 .8zM783.2 786.4l2.3-3.7 1.7-1.4-1.4 .8-2 2-2.1 3.9zM785.8 782.1l3-.8 3.4 1.3 2 2.1 2.7 5.6 .6 .2 1.5-1.6-.7-.2-2.7-4.9-2.4-2.3-3-1-3 .8zM799 788.9l2.3-3.8 2-1.8-1.4 .8-2 2-2.4 4.4zM801.9 784.1l3-.8 3.1 .9 2.3 2.3 2.4 4.7 .6 .4 1.4-1.7-.6-.2-2.7-4.6-2-1.7-3.1-.9-3 .8zM814.7 789.9l3.1-5.1 3.3-2.9-1.4 .8-3.3 3-3.1 5.9zM819.7 782.7l4-1.5 5.8-.6 8 .1 11.1 1.1 1.4-.8-10.7-1-8.1-.2-5.7 .6-4.4 1.5z"/><path transform="translate(3.3 -1.82)" d="M714.2 757l16.1 4.7 9.4 4.3 3.1 2.3 2.7 3 2 3.6 1.6 4.7 .7 .8 .4-.3 1.4-1.5-.4 .2-.6-.7-2.1-4.9-2-3.2-2.3-2.5-3-2.3-9.5-4.3-16.1-4.7zM751.6 778.6l1.7-2.8 1.6-1.6-1.4 .8-1.7 1.7-1.6 3.4zM753.5 775l1.7-.6 1.7 0 3.3 1.6 2.7 3.3 2.4 5.7 .6 0 1.5-1.5-.7 0-2.7-5.6-2.7-3-3.3-1.4-3.1 .7zM767.4 783.5l2-3.6 2-1.8-1.4 .9-2 1.9-2.1 4.1zM770 779l3-.6 3.4 1.5 2.3 2.8 2.4 5.6 .6 .1 1.5-1.5-.7-.1-2.7-5.5-2.4-2.5-3-1.2-3 .5zM783.2 786.9l2-3.6 2-2-1.4 .8-2 2.1-2.1 4.2zM785.8 782.1l3-.8 3.4 1.3 2.3 2.7 2.4 5.4 .6 .3 1.4-1.6-.6-.2-2.7-5.3-2.4-2.3-3-1.1-3 .8zM798.9 789.4l2.4-4.2 2.4-2-1.5 .8-2.3 2.2-2.4 4.8zM802.2 784l3.1-.7 3 1.2 2 2 2.4 5.1 .6 .4 1.4-1.5-.6-.4-2.4-4.4-2-2-3-1.2-3 .7zM814.7 790.5l3.1-5.6 3.3-3-1.4 .8-2 1.5-1.7 2-2.7 5.8zM819.7 782.7l4-1.5 5.8-.6 8 .1 11.1 1.1 1.4-.8-10.7-1-8.1-.2-5.7 .6-4.4 1.5z"/><path transform="translate(2.47 -1.36)" d="M714.2 757l16.1 4.7 5.4 2.1 4.4 2.4 3 2.4 2.4 2.7 2 3.6 2 5.7 .7-.2 1.4-1.4-.4 .3-.6-.7-2-5.3-2.1-3.3-2.3-2.5-3-2.3-9.4-4.3-16.2-4.7zM751.6 779l2-3.6 1.7-1.4-1.4 .9-2.1 1.9-1.6 3.6zM753.9 774.9l3-.5 3.3 1.6 2.7 3.4 2.4 6 .7-.1 1.4-1.4-.7 0-2.4-5.4-2.6-3.3-3.4-1.6-3 .4zM767.4 783.9l2-3.9 2-1.8-1.4 .8-2 1.9-2 4.4zM770 779l3-.6 3.4 1.5 2 2.3 2.7 6.4 .6 .2 1.5-1.5-.7-.1-2.4-5.3-2.3-2.8-3.4-1.5-3 .6zM783.2 787.3l2-3.9 2.3-2.3-1.4 .9-2.3 2.3-2.1 4.5zM786.1 782l3-.6 3.4 1.5 2 2.4 2.4 5.7 .6 .3 1.5-1.4-.7-.3-2.4-5.2-2.3-2.6-3-1.2-3.1 .5zM799 789.9l2.3-4.6 2.4-2.1-1.5 .8-2.3 2.2-2.4 5.1zM802.2 784l3.1-.7 3 1.2 2 2.1 2.4 5.3 .6 .5 1.4-1.5-.6-.3-2.4-4.9-2-2-3-1.2-3 .7zM814.7 790.9l3.1-6 3.3-3-1.4 .8-2 1.5-1.7 2.1-2.7 6.1zM819.7 782.7l4-1.5 5.8-.6 8 .1 11.1 1.1 1.4-.8-11.1-1.1-8-.1-5.7 .6-4.1 1.5z"/><path transform="translate(1.65 -0.91)" d="M714.2 757l16.5 4.8 5.3 2.2 4.4 2.5 3 2.4 2.4 2.9 4 9.2 1.4-1.3-4-8.7-2.3-2.9-3.4-2.7-4.4-2.3-5.4-2.2-16.1-4.7zM751.2 779.7l2.4-4.2 1.7-1.4-1.4 .8-2.1 2-2 4.1zM753.9 774.9l1.6-.5 1.7 .1 3.4 1.8 2.3 3.1 2.7 6.5 1.4-1.3-2.7-6-2.3-3.1-3.4-1.8-1.7-.1-1.6 .5zM767 784.6l2.4-4.5 2-1.9-1.4 .8-2 2-2.4 4.9zM770 779l3-.6 3.4 1.5 2.3 2.9 2.4 6.1 .6 .1 1.5-1.3-.7-.1-2.4-5.6-2.3-2.9-3.4-1.5-3 .6zM783.2 787.7l2-4.3 2.3-2.2-1.4 .8-2.3 2.3-2.1 4.7zM786.1 782l3-.6 3.4 1.5 2 2.4 2.4 5.9 .6 .4 1.4-1.3-.6-.3-2.4-5.5-2-2.4-3.4-1.5-3 .6zM798.9 790.3l2.4-4.9 2.4-2.2-1.5 .8-2.3 2.2-2.4 5.4zM802.2 784l3.4-.6 3 1.4 2 2.4 2.1 5 .6 .4 1.4-1.3-.6-.4-2.4-5.1-2-2.1-3-1.1-3 .6zM814.7 791.3l3.1-6.3 3.7-3.2-1.5 .8-2.3 1.7-1.7 2-2.7 6.3zM820 782.6l4.1-1.4 5.7-.7 8.1 .3 10.7 1 1.4-.8-10.7-1-8.1-.2-5.7 .6-4 1.4z"/><path transform="translate(0.82 -0.45)" d="M714.2 757l16.5 4.8 5.4 2.2 4.3 2.5 3 2.4 2.4 2.9 4 9.3 1.4-1.1-4-9-2.3-2.8-3.1-2.5-4.3-2.5-5.4-2.2-16.5-4.8zM751.2 780l2.1-4 2-1.9-1.4 .8-2.1 2-2 4.2zM753.9 774.9l1.6-.5 1.7 .1 3.4 1.8 2.3 3.1 2.7 6.6 1.4-1.1-2.7-6.3-2.3-3.1-3.4-1.8-1.6-.1-1.7 .5zM767 784.9l2.4-4.7 2-2-1.4 .8-2 2-2.4 5zM770 779l3-.6 3.4 1.5 2.3 2.9 2.4 6.2 .6 .1 1.5-1-.7-.2-2.4-5.9-2.3-2.9-3.4-1.5-3 .6zM783.2 788.1l2-4.6 2.3-2.3-1.4 .8-2.3 2.3-2.1 4.8zM786.1 782l3-.6 3.4 1.5 2 2.4 2.4 6 .6 .4 1.5-1.1-.7-.3-2.4-5.8-2-2.4-3.3-1.5-3.1 .6zM799 790.6l2.3-5.2 2.4-2.2-1.5 .8-2.3 2.2-2.4 5.5zM802.2 784l3.4-.6 3 1.4 2 2.4 2.1 5 .6 .5 1.4-1-.6-.5-2-4.9-2.1-2.3-3-1.4-3.3 .6zM814.7 791.7l3.1-6.7 3.7-3.2-1.4 .8-2.4 1.7-1.7 2-2.7 6.4zM820.1 782.6l4-1.5 5.7-.6 8.1 .2 10.7 1.1 1.4-.8-10.7-1-8.1-.2-5.7 .6-4 1.4z"/><path transform="translate(0 -0)" d="M714.8 756.6l16.5 4.9 5.3 2.2 4.4 2.4 3 2.5 2.4 2.9 4 9.3 .8-.5-4-9.3-2.3-2.8-3.1-2.5-4.3-2.5-5.4-2.2-16.5-4.8zM751.2 780.3l2.1-4.2 2-2-.9 .5-2 2-2 4.2zM754.4 774.6l1.7-.6 1.7 .1 3.4 1.9 2.3 3.1 2.7 6.5 .8-.5-2.7-6.5-2.3-3.1-3.4-1.8-1.6-.1-1.7 .5zM767 785.1l2.4-4.9 2-2-.8 .5-2 2-2.4 4.9zM770.6 778.7l1.7-.6 1.6 0 3.4 1.8 2.3 3.2 2.4 5.9 .8-.5-2.3-5.8-2.4-3.2-3.3-1.8-1.7-.1-1.7 .6zM782.8 788.5l2.4-5 2.3-2.3-.8 .4-2.3 2.4-2.4 5zM786.7 781.6l3-.5 3.4 1.5 2 2.4 2.4 6 .6 .3 .9-.5-.7-.3-2.4-5.9-2-2.5-3.3-1.5-3.1 .6zM799 790.8l2.3-5.3 2.4-2.3-.9 .5-2.3 2.2-2.4 5.4zM802.8 783.7l3.4-.6 3 1.3 2 2.4 2 5.1 .7 .5 .8-.5-.6-.5-2-5-2.1-2.4-3-1.4-3.3 .6zM814.7 791.9l2.7-6.4 1.7-2 2.4-1.7-.9 .4-2.3 1.7-1.7 2.1-2.7 6.4zM820.6 782.2l4.1-1.4 5.7-.6 8 .2 10.8 1 .8-.4-10.7-1-8.1-.2-5.7 .6-4 1.4z"/></g>
<g text-anchor="middle" font-size="10.2"><text x="727.2" y="852.1">20</text><text x="753.8" y="857.0">10</text><text x="780.5" y="862.0">0</text><text x="805.2" y="866.9">-10</text><text x="831.8" y="871.8">-20</text><text x="862.8" y="869.3">0</text><text x="876.0" y="862.0">1</text><text x="889.2" y="854.7">2</text><text x="902.4" y="847.5">3</text><text x="915.5" y="840.2">4</text><text x="928.7" y="832.9">5</text><text x="941.9" y="825.7">6</text></g>
<g text-anchor="middle" font-size="10.8"><text x="762.5" y="872.0">z</text><text x="922.8" y="853.0">ρ</text><text x="691.1" y="740.5" text-anchor="start">f(z,ρ)</text></g>
<g text-anchor="end" font-size="10.2"><text x="708.3" y="812.6">0</text><text x="708.3" y="800.9">0.2</text><text x="708.3" y="789.2">0.4</text><text x="708.3" y="777.5">0.6</text><text x="708.3" y="765.8">0.8</text><text x="708.3" y="754.2">1</text></g>
</svg>
</body></html>
